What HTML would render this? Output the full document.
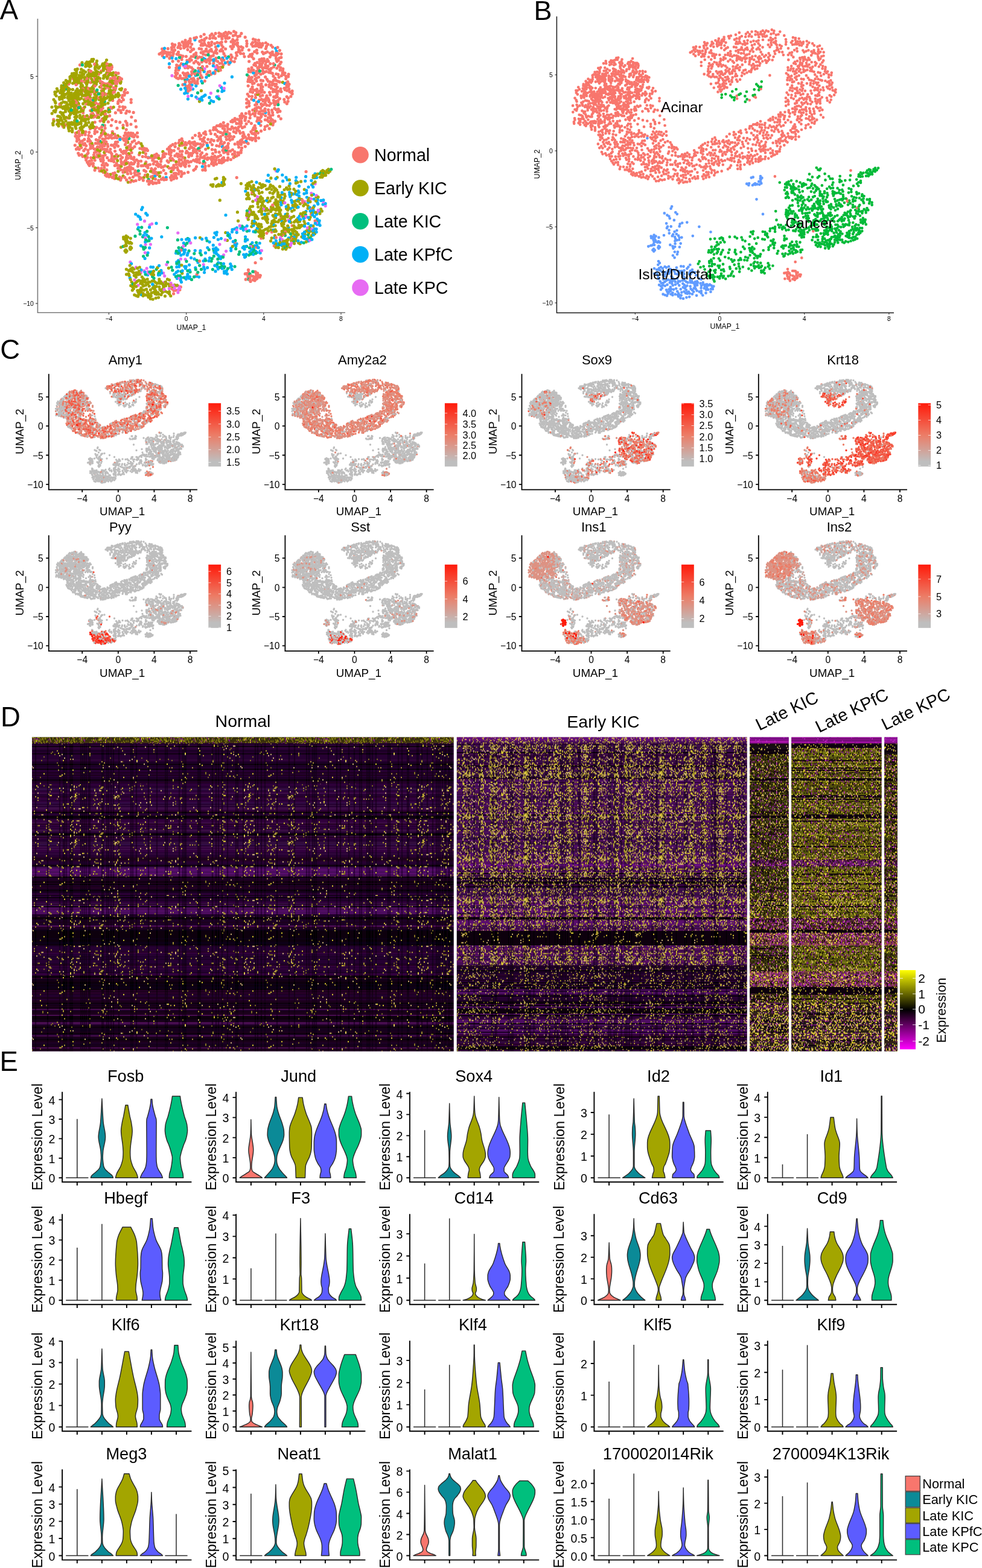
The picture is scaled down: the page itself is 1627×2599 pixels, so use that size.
<!DOCTYPE html>
<html lang="en"><head><meta charset="utf-8"><title>Figure</title><style>html,body{margin:0;padding:0;background:#fff}body{width:1627px;height:2599px;overflow:hidden}svg{display:block}text{font-family:"Liberation Sans",sans-serif}</style></head><body><svg width="1627" height="2599" viewBox="0 0 1627 2599" font-family='"Liberation Sans", sans-serif'><g id="panelA"><text x="-0.3" y="31.6" font-size="45.5" text-anchor="start" fill="#000">A</text><path d="M62.4 31.0V518.2H572.0" fill="none" stroke="#7a7a7a" stroke-width="1.6"/><line x1="180.4" y1="518.2" x2="180.4" y2="521.4" stroke="#333" stroke-width="1.1"/><text x="180.4" y="531.8" font-size="10.4" text-anchor="middle" fill="#000">−4</text><line x1="308.6" y1="518.2" x2="308.6" y2="521.4" stroke="#333" stroke-width="1.1"/><text x="308.6" y="531.8" font-size="10.4" text-anchor="middle" fill="#000">0</text><line x1="436.8" y1="518.2" x2="436.8" y2="521.4" stroke="#333" stroke-width="1.1"/><text x="436.8" y="531.8" font-size="10.4" text-anchor="middle" fill="#000">4</text><line x1="565" y1="518.2" x2="565" y2="521.4" stroke="#333" stroke-width="1.1"/><text x="565" y="531.8" font-size="10.4" text-anchor="middle" fill="#000">8</text><line x1="59" y1="126.5" x2="62.4" y2="126.5" stroke="#333" stroke-width="1.1"/><text x="55.8" y="130.9" font-size="10.4" text-anchor="end" fill="#000">5</text><line x1="59" y1="252" x2="62.4" y2="252" stroke="#333" stroke-width="1.1"/><text x="55.8" y="256.4" font-size="10.4" text-anchor="end" fill="#000">0</text><line x1="59" y1="377.5" x2="62.4" y2="377.5" stroke="#333" stroke-width="1.1"/><text x="55.8" y="381.9" font-size="10.4" text-anchor="end" fill="#000">−5</text><line x1="59" y1="503" x2="62.4" y2="503" stroke="#333" stroke-width="1.1"/><text x="55.8" y="507.4" font-size="10.4" text-anchor="end" fill="#000">−10</text><text x="317" y="546.5" font-size="12.2" text-anchor="middle" fill="#000">UMAP_1</text><text x="33.5" y="274" font-size="12.2" text-anchor="middle" fill="#000" transform="rotate(-90 33.5 274)">UMAP_2</text><path d="M136 103.9zm11.2-.8zm13.3-2zm16.1-1.5zm.7 9.4zm-35.5 1.1zm5.4 6.3zm29.9-1.9zm184.9 2.7zm-170 7.5zm-8.7-3.3zm-11.3 4.3zm-24.9-.9zm-21.1-.7zm-2.4 1.9zm-7.7 1.5zm13.7 6zm2.2-2.8zm26.8 3.1zm36.4-3.7zm-2.8 12.6zm-7.9-6.5zm-17.7 1zm-30.1 4.4zm-9.1-3.2zm-26.2 10.6zm3.2-.7zm2.8-.6zm6.4 4.2zm12.3-1.3zm2.1-3.1zm25.1-2.8zm15.5 5.6zm21.8-1.4zm8.1-1.1zm-2.6 6.9zm-22.8 2.1zm-15-4.1zm-35.1 2.1zm-1.3 3.4zm-6.2-1.8zm-1.4-1.9zm-2.8 .4zm-8.9 3.7zm-9.4-6.1zm5.3 8.8zm8.6 0zm5.6-1.1zm1.6 6zm5.7-4zm4.1 1.4zm5.7-3.2zm2 4zm16.6-3.2zm15.8 3.6zm2.5-1.5zm.7 3.1zm4-2.9zm3.1 .6zm-26.7 4.8zm-9.9 3zm-25.2 1.7zm-7.5-4.6zm-4.8 6.1zm-7.9 7.7zm16.9-4.2zm5 5.3zm13.1-.2zm5.1-6.9zm34.3 3zm256 3.9zm-252.8 1.7zm-2.7 4.8zm-6.4-5.5zm-5.7 6.2zm-28.8-5.3zm-4.4 .5zm-21.8-.1zm14.9 6zm9.1 2.1zm16.1 3zm3 .4zm30.8-4.4zm-27 9.7zm-12.8 2.2zm-20.4 2.6zm-8 3.3zm10-.1zm3.8 2.4zm15.8-3.3zm32.8 10.9zm-48.5-4.8zm49 20.4zm129.1 4.5zm-60.6 11.6zm152.3 6.7zm-194.4-.5zm87.9 6.7zm-111.1 17.1zm277 12.7zm77.3-6.9zm-169.7 8.2zm5.7 9.3zm45.7 1.2zm2.3-2.7zm.2 4.1zm17.8 2.5zm5 .2zm6-3.4zm47.8 5.9zm-10.3 .3zm-22.5 4zm-31.8 6.2zm91.5 10.3zm-69.9 .2zm-35.3-5zm19 13.4zm7.4-4.5zm20-2.1zm22.1 3.8zm12-2zm2.7 2.7zm5.4-3.2zm12.8 3.5zm0 4.2zm-22.7 2.6zm-12.9-2.3zm-14.1 .2zm-20.7 3zm-6.6 2.6zm-1.3-3.4zm-38.4 3.6zm24.8 3.7zm4.6 .6zm81.1 10.8zm-7.3 .2zm-31.1-3.1zm-8.8-3zm-2.9 4zm-2.9 2zm-7.5-3.5zm-1.5 3zm-1.9-2.9zm16.1 10.5zm25.9-5.3zm17.4 4.7zm2.9 .7zm2.9-3.4zm13.7 3.9zm-3.9 8.5zm-5.1-2.2zm-20.9 2.1zm-5.8-2.5zm-36.9-4.2zm-16.2 3.8zm-56.3 5.4zm62.7 1.2zm19 3.9zm11.2 0zm44.3 4zm-11.1-2zm-16.6-.4zm-10.9 7.5zm-36.4-5.4zm-104.5-.3zm-126.9-.9zm3.8 12.9zm.7-3.4zm.3 4.7zm6.4-5.8zm264.2 8zm-200.6 34.8zm-54.7 12zm.6 12zm2.2-2.1zm9.7 .5zm3-2.5zm1 3.9zm3.8 2.5zm.8-3.1zm14.3 2.1zm12.8 1.6zm6.5-.4zm-20.3 3.9zm-25 8.8zm16.8 2.2zm16.1-3.6zm10.7 2.5zm-28.5 10.6zm-1.4-4.8z" stroke="#A3A500" stroke-width="5.2" stroke-linecap="round" fill="none"/><path d="M325.4 62.1zm68.6-1.4zm25.6 4.2zm-26.7 1zm-25.7 4zm-33-3.3zm-3.2 1.8zm-15.8-.6zm-.8 3.1zm-1.6-2.6zm-28.4 10.6zm12.4-6.7zm39.2 2.9zm3.6-1zm3.8 1.9zm3.1-1.9zm9.2-1.8zm31.1 4.9zm41.5-2zm6.9-3zm7.7 13.8zm-8.2 .3zm-9.3-3.2zm-58.5-1zm-55.9 .2zm-23.7 3.4zm-18.2 6.6zm7.1-3.5zm40.8 5zm8.2-1.5zm22.6 1.9zm25.2-1.3zm11.5 1.6zm14.2-5.8zm67.1 6.5zm-7.7 3.8zm-13.5 2.6zm-18.5 2.1zm-42.7-2.4zm-15.4-.5zm-10.1-4.4zm-10.7 4.3zm-52.4 10.2zm3-1.7zm23.5-5zm8.7 2.2zm29.4 2.2zm8.1-3.8zm53.3 2.7zm1.7-2.4zm38.7 4.3zm-23.1 2.8zm-9.9 3.2zm-16.2 3.4zm-51.6-4.7zm-12.8 4.3zm-2.8 .9zm-33.4-6.7zm-20.1 4.2zm-114 2.4zm-9.6-1.5zm-4.7 3.3zm26.1 6.3zm101.2-.4zm1.6-2.8zm35.5-3.1zm28.5 .8zm66.3 3.5zm9.8-2.3zm34.3 2.5zm10.5 10.2zm-14.7-7.6zm-6.4 1.4zm-2.5 3.9zm-8.9 1.3zm-19.4-.4zm-2.1-3.1zm-102.2-1.4zm-22.4-.9zm-100 3.7zm-4.1 1.9zm-73.2-4.2zm48.4 6.1zm10.1 2zm129.2 4.4zm6.1-3.3zm139.5-.2zm29.9 11.6zm-58.5-3zm-3.7 1.6zm-112.1-2.8zm-102.2 1.8zm-16.1-2zm-7.2 5.4zm239.2 5zm6-.9zm8.4-3zm9.8 4.2zm11.6-1.6zm20.5-3.5zm-16.4 11.5zm-19.1-.5zm-227.1 2zm-16.3 3.3zm211.8 2.4zm0 4.6zm35.8-3.9zm12-1.3zm11.3-1.2zm-16.9 10.5zm-18.7 4.3zm-2.7 0zm-248.2-4.5zm-19.2 4.5zm-7.5-5.3zm-8.9 4.8zm-12 3.7zm53.7-.1zm240.4 2.2zm16.3 3.1zm-18.3 6.8zm-3-.2zm-12.7-3.4zm-20.6 2.4zm-246-3.6zm-34.9 1.5zm-16.4 7.3zm77.2 4.8zm30.6-.1zm227.9 .1zm20.1-.9zm.7-3.1zm-29.5 8.8zm-30.6 3.3zm-2.3-3.8zm-240.9 1.4zm-24 7.2zm53.3 2.8zm38.2-2.9zm7 3.3zm141.6-4.2zm52.3 1.4zm2.2 .5zm12.5-4.4zm-8.9 7.2zm-21.3 1.3zm-14.8 .8zm-12.1 4.7zm-10-.6zm-46.4-2.1zm-107.6 2.9zm-12.4-3.8zm-13.4 1.4zm-10.8-4.2zm-23.5 1.1zm-26.3-.2zm2.4 8.2zm21.8 4.6zm13.6-3.4zm133.3 1.7zm11.2-.5zm14.9-1zm26.3 .2zm20.4 4.1zm25-3.7zm.5 3.4zm7.1-3.7zm7.3 .5zm8.9-4.1zm-22 11.9zm-18.4-2.3zm-63.6 4.9zm-36.2 .5zm-34.7-.2zm-19.8-3.7zm-10.4-.3zm-25.6-1.7zm-17.5-.8zm-13.5 6.5zm-17.2 2.9zm60.6-1.5zm42 6.6zm69.8-1.7zm46.2-1.3zm5.8 .4zm8.9-2.4zm13.3-1.5zm0 7.4zm3.4-.2zm6.5 1.2zm-39.5 2.2zm-17.1 0zm-55.7-1.3zm-10.7 1.9zm-18.1 .4zm-37.6-.6zm-1.6-1.9zm-22.1-1.1zm-8 6.8zm-10.7-6.3zm-3.1 1.5zm-15.6-1.5zm-20.2-.5zm35.7 13.1zm22.1 1.4zm28.3 .8zm7.6-.2zm12.8-2.7zm14.4-.9zm10.4-.3zm36.3 1.8zm22.4-5.1zm1.3 4zm12.9 1.9zm.7 5.2zm-.6 3.3zm-34.7-5zm-19.1 4.4zm-15.9-1.3zm-10.6-3.2zm-14.3 4.5zm-46.6 .6zm-25.6-.8zm-10.2 .7zm-14.5-4.2zm23.2 11.4zm44.4-1.9zm11.9 1.1zm25.5 .9zm18-3.5zm25 5.9zm-9.6 4.9zm-2.1-2.3zm-31.2 1.2zm-22.4 1.3zm-15.9 1.7zm-26.3-3.5zm74.9 10.9zm252.1 52.7zm-65.4 29.5zm4.1 23zm-43.5 46.3zm1.2-1.8zm18.2 7.1zm-1.1-2.6zm-18 2.2zm-119.3 15.3zm6.1 6.2zm-10.3 6.5z" stroke="#F8766D" stroke-width="5.2" stroke-linecap="round" fill="none"/><path d="M323 66.1zm-31.2 31.1zm-11.3 8.5zm77.1 10.3zm-33.5 9zm60.3 2.4zm-42.5 .7zm-23.9 12.8zm50.6 6.3zm-2.1-2.5zm-60 1.5zm27.9 15zm110 129.2zm-169.1 3.7zm166.9 5.6zm33.9-1.7zm29.6 2.1zm10.9 6.3zm-12.7 14.7zm15.5 1.1zm6.9 8.8zm-6.1-1zm-9.7 5.6zm-14.4-4.5zm-10.9 12.3zm41.6-5.2zm8.3 .6zm-5.3 12zm-16.4-6.6zm-32.2 1.6zm-8 9.6zm20.7 9.7zm-26.6 2.1zm-58.1 7.3zm68.8 2.8zm-57.9 6.6zm-21.2-5.4zm-13.9 2zm105.9 7.5zm10.5-.5zm.9 6.5zm-14.1 4.7zm-164.6-4.5zm-76.1 1zm56.9 7.7zm87.8 1.2zm25.8-1.8zm41.9 1.5zm-77.2 11.5zm-29.2-2.7zm-30.3 2.7zm-19.2-.9zm-59 4.7zm60.5-.5zm120.6-.1zm-42.6 22.7zm-22.1 4.6zm-107.7-2.9zm-9.1 12.8zm22.3-7.3zm90.1 1.3zm18.5-1.1zm-61 10.3zm-99.2 1.5z" stroke="#00B0F6" stroke-width="5.2" stroke-linecap="round" fill="none"/><path d="M283 95.1zm95.6-1zm-70 11.6zm13.1 14.2zm11.6-6.9zm-1.2 15.7zm-225.9 13zm189-.1zm-184 6.2zm62 20.6zm-3.1 39.2zm204.7 14.6zm161.5 64.4zm-290 11.1zm-11.6 79.2zm-6.2 2.7zm-4.5 11.8zm261.8 8.5zm-79.1-3.2zm-95.6-1.3zm-67.4 4.1zm-7.1-6.9zm70.2 13.8zm117.9-4.3zm38.1 3.6zm-108.4 9.9zm-41.3 .3zm8.7 4.4zm32.5 4.1zm-116.7 .4zm112.5 8zm15.7 3.7zm5.1 7.6zm-3.3-3zm-126.5 13.7zm50.3 3.7zm-38.7 .1z" stroke="#00BF7D" stroke-width="5.2" stroke-linecap="round" fill="none"/><path d="M349.3 154.4zm69.9 158.9zm85.8 20.9zm34.2 7.1zm-71 18.4zm37.6 .7zm-96.1 0zm-161.4 12.4zm261.2 4.9zm-139 45zm-154.7 11.6zm17.6 17.4zm11.7-1.4zm27.6 7.1zm-43.7 15.6zm59.5 2.6z" stroke="#E76BF3" stroke-width="5.2" stroke-linecap="round" fill="none"/><path d="M143.9 102.9zm10.9-4.6zm26.7 11.8zm-8.5-4.4zm-15 3.4zm-9.7 1.2zm-20.1 4.1zm6.5 .5zm23.2 .3zm13.4-1.1zm.1 2.7zm16.3 3.9zm-1.3 4.2zm-9.7-3.5zm-29.2-.3zm-14.4 4.3zm-10.4 3.9zm.5 4.8zm9.2-.1zm1.8-2.5zm6.2 2zm3.1 1.1zm9.6-.9zm43.4-5.5zm272 8.2zm-293.9 4.4zm-28.9-4.6zm-12.4 1.3zm-18.1-.5zm-7.2 6.2zm-.4-3.9zm-1.9-2.1zm-11.3 9.8zm8.2 3.7zm2.5-5.5zm1.2 4.9zm4.6-6zm17.6 6.9zm10.9-4.8zm.6 1.8zm61.5-1.2zm225.5 9.7zm-232.5 1.5zm-21.6-3.2zm-29-1.8zm-40.5 3.4zm16 8.1zm3.4-3.3zm3.5 1.3zm.8 3.9zm7.5-3.5zm16.2 4.8zm179.7 .4zm-163.8 2.8zm-2.1 4.4zm-45.4-6.1zm-3.1 3.9zm-8.3-3.5zm-16.6-1.4zm.8 7.9zm18.7 4.6zm2.2-2.3zm4 1.5zm21.3 1.4zm13.4 2.6zm17.1 3.5zm-63.4 4.3zm-6.9 1.5zm2.3 1.7zm34.2 2.8zm25.9-3.4zm14.5 3zm2.2-4.3zm270.8 12.4zm-295 1.6zm-2.4-.1zm-24-.1zm-2.2 .4zm-18.3-1.7zm-1.9-2.7zm-7.1-1.9zm38.4 11.8zm33.2 3.1zm-29.4 3.8zm-19.9-1.1zm91.9 17.4zm22.2 2.3zm111.2 6.9zm-131.7 9.5zm92.8 7.3zm-116.6-2.4zm102.3 8.7zm-13.7 8.1zm-82.3 7.7zm345.5 1.5zm2.9-4.9zm-85 13.4zm-100.2 1.6zm-94.5-3.4zm-26.1 1.8zm-34.4-2.5zm14.3 7.9zm154.2-2.6zm106.9 1.4zm-15.9 11zm-33.1-4.9zm-10.3 2.8zm-59.9 .2zm-1.8 1.5zm63.4 4.1zm36.7 2.2zm65.5 11.6zm-28.3 1.1zm-35.2-5.4zm-33.4 6.9zm2.6-.6zm2.5 1.9zm2.1 5zm72 2.9zm-3.4 2.6zm-42.4-1.9zm-27.4 2.2zm-12.9 10.5zm21.5-6.4zm20.7 3.5zm14.4-.8zm-13.3 4.1zm-3 2.9zm-4-.8zm-4.4 2.6zm-7.6-2.9zm-32.4 4.4zm10.6 3.3zm33.8 5.7zm24.1-4.1zm45.4 2.9zm-38.5 1.8zm-20.3 6zm-14.8 .6zm-30.9-4zm2.6 11.1zm8.2 .9zm40.4-4zm2.6 4.3zm-5.8 3.3zm-7.7 2.3zm-30.3 .7zm17.1 10.1zm42.5-.4zm6.1 4.9zm-9.6-.3zm-278.6-3.2zm-2 15.4zm8.2-4.1zm.8 1.5zm252.4-.4zm-259.8 5.1zm13.5 28.1zm79.7 7zm-70 1.5zm-3 .6zm-13.4-6.8zm-2.2 .1zm12.2 10.9zm9.9-.2zm2 2.7zm40.1 1zm-11 6.9zm-33.4 0zm-2.9-4.9zm-13.3 8.6zm4.5 5.2zm48.3 .4zm1.5-2.5zm3.4-2.8zm6.3 .9zm-6.9 8.3zm-4.9 1.8zm-34-4.3zm-3.2 .3zm-9 8.1zm22.4 1.1z" stroke="#A3A500" stroke-width="5.2" stroke-linecap="round" fill="none"/><path d="M373.8 53.6zm13.7-1.4zm-10.6 4.2zm-3 6.9zm-19.8-3.7zm-3.1-3.3zm-29.1 6.7zm16.4 4.3zm21.5 3.3zm8.1-6.4zm18.8 5.7zm31.9 .8zm4.5-1.6zm7.1 2.4zm2.1 2.4zm-8.2-.9zm-24.6 4.5zm-6.2-2.6zm-86.2 2.4zm-2.9-1.4zm-7.9 .5zm-27.6 4.7zm3 2.6zm3.2 3zm3.5 .5zm37.2-1.7zm2.4-2.6zm21.7 2.1zm2-3.6zm.8 3.4zm12.1 2.9zm2.6-3zm38.4-3.2zm1.4 3.4zm4-2zm20.7 2.8zm18.7-5.2zm10.9 5.5zm-2 4.9zm-34.7-.3zm-9.6 3.2zm-12.7-1.9zm-51.3-.9zm-4.2-1.2zm-49.6-.9zm-1.1 3.5zm0 9.2zm15-3zm27 5.4zm21.5-4.8zm21.3 .3zm17.4 2.6zm24.4-.3zm17.3-3zm3.7-1.1zm4.6 3.3zm25.6 5.1zm-24.1 .8zm-6.7 3.5zm-67.6 1zm-4.1 .3zm-14-6.6zm-37.6 3.9zm-29.3 2.6zm-95.1-.1zm-.4-2.5zm-52.5-1.3zm52.2 6.9zm107.2-2zm4 3.3zm145.2 2.6zm4.3-3.7zm23.4-.8zm9.3 9.2zm-17.3 .2zm-9.4-1.9zm-2.8-.9zm-23.8 2.9zm-75.1-.4zm-37.9 0zm-.9-2.1zm-3.2 1zm-4.3-1.2zm-5 4.8zm-157.8 10.3zm51-.1zm7.1-6.7zm2.8 1.8zm91.1-1.9zm11.3 1zm8.9 3.1zm6.9 1zm7.1 .8zm146.9-4.3zm4.1 12.3zm-3.9-5.4zm-16.2 2zm-11.5 .8zm-131.2 3.4zm-12-3.3zm-122.7 2.8zm-11.4-2.8zm-30.3 10.1zm8.6-1.7zm8.3 1.9zm32.7-5.1zm226.5 6.3zm38.3-3.6zm18-2zm1.4 2.4zm2.3-4.2zm.7 5.6zm7.4 3.3zm-40.9 5.5zm-23.3-5.8zm-211.7 1.6zm-38.2 4.7zm-13.1-6.4zm-5.5 3.6zm-10.5 2.6zm-8.4-4.9zm55.5 12.1zm17.7-1zm212.5-.9zm20.8 1.1zm23.1 1zm-15.1 2.1zm-9 4.7zm-11.5-3.8zm-13.3-1.4zm-3.2 2.7zm-256.2-2.3zm270.1 11.4zm5.9-2.2zm3 1.5zm13.1 2.8zm6.9 4.4zm-5.9 2.7zm-224.5-2.8zm-10.9-2.4zm-28.6 7.9zm-19.5-2.5zm-3.4 3.4zm272.6 2.3zm8.1 3.5zm3.6 .7zm1.4-4.1zm4.2 1.1zm2.8 2.5zm4.2 2.1zm-10.3 .8zm-13-.4zm-15.9 3.3zm-217.7-1.9zm-32.8-2.1zm28 11.8zm164.6 2.8zm1-6.7zm9.7 4zm24.8 1.4zm7.5-2.2zm20.5 3.5zm-6.1 3.2zm-25 1.6zm-10.6 1.5zm-170.1 1.7zm-23.9-4.9zm-15.5 3.3zm-13.8-.3zm15.8 9.8zm46-5.5zm119.6 2.4zm35.8-1.2zm4.2-1.2zm6.9 5zm-7 7.2zm-52.8 .6zm-6.9-2zm-32.4 3.3zm-145.7-1.9zm-9.3 9.7zm45.9 .1zm12.9-3.3zm5.6-2.1zm40.3 5.1zm44.5-3.2zm35.6-1.2zm5.3 3.2zm10.3-1.7zm9.1 2.9zm10.7 .5zm54.9-5zm-7.1 10.2zm-2.8 .2zm-2.5-.2zm-24.9-3.7zm-43.2-.9zm-.9 3.5zm-4.5-2.1zm-1 3.8zm-11-.1zm-63.9-4.1zm-4.7 0zm-31.1 4.7zm-3.4-3.5zm-3.8 1zm-42.8-3zm-29 5.4zm1.5 3.2zm13.7 3.9zm16.3-4.6zm48.4 4.1zm1-3.6zm44.6 5.1zm1.3-2.7zm13.7-2.5zm19.7 1.3zm11-2.1zm11.8 3.7zm14.2-.8zm8.2 2.1zm8.8 .4zm6.9-1.4zm41.2-1.7zm-24.7 11.6zm-30.7 .9zm-9-6.6zm-14.9 4.8zm-15.7-4.8zm-73.8 4.3zm-4.6 3.3zm-1.2-2.1zm-11.7-.7zm-17-1zm-31.5-2.5zm-2.8 5.3zm13.5 8.3zm10-5.8zm17.6 5.5zm1.9-4.6zm51-1.5zm48.6 .4zm2.5 1.8zm12.1 10.6zm-20.1 1.8zm-16.8 .3zm-8.4-1.9zm-89.5-4.1zm-11.8 1.6zm11.8 8.8zm6.1 .1zm3.4 2zm41.1-4.1zm13.1 .3zm29.8 4.4zm21-3.9zm8.9 1.4zm-16.4 6zm-39.4 1.9zm-7.1-1.3zm16.2 5.4zm135.5 98zm22.5 45.1zm14.4 14.2zm-6.8 2.2zm-5.2-2.9zm-114.6 14.8z" stroke="#F8766D" stroke-width="5.2" stroke-linecap="round" fill="none"/><path d="M336.6 96.3zm36.8 7.9zm-35.1 14.5zm33.7 19.1zm-72.3 10.1zm19.9-.3zm30.2 19.3zm-38.4-2.8zm128.5 22.5zm-241.1 44.6zm169.7 12.1zm-33.2 32.7zm-78.4 15.8zm188.9 8.9zm-20.8 1.5zm-18.2 14.6zm88.3 2.3zm-29.7 16.3zm-229.4 8.5zm281.9 12.4zm-21.6 1.9zm-252.3-1.8zm-15.1 1.8zm-4.2-3.2zm300.9 8.2zm4.5 10.3zm-4.6-1.6zm-72.6 0zm-49.9 7.1zm.3 2.3zm1.7-3.9zm119.1 2.2zm-143.9 9.3zm-142.3 1.2zm75.3 6.5zm.3 2.8zm52.9-4.1zm40 4.4zm3.4-2.3zm44.9-3.2zm-33 13.2zm-30.8 .4zm-2-2zm-35.6 .6zm3.1 6.8zm60.5 .6zm3.3-2.1zm10.9 7.5zm-.1-3.2zm-69.7 6.8zm-20.8-3.6zm-43-.9zm-57.4 10.1zm55.4 3.5zm21.1-4.6zm53.9 9.9zm-24.5-4.8zm-128.4 4.7zm32.3 5.4zm58.4-.7zm15.5 2zm36.3-1.5zm21.8 .7zm-87 6.3zm-1.5 12.2zm14.9 1.1z" stroke="#00B0F6" stroke-width="5.2" stroke-linecap="round" fill="none"/><path d="M324.1 95.1zm130.8 12.6zm-147.9 25.4zm153.8 40.5zm-295.3 60.6zm340.9 121.6zm-36 28.5zm2 5.9zm9.2-2.5zm-138.5 11.3zm-48.7-1.3zm-48.4-5.6zm63.8 11.1zm80.9 9.2zm-89.2-1.7zm-57.4 12.2zm151.6-1.4zm22.7-2.9zm-29.4 23.2zm-74 8.9zm-20.2 6.4z" stroke="#00BF7D" stroke-width="5.2" stroke-linecap="round" fill="none"/><path d="M316.6 146.1zm45.1 13.7zm-34.5 3.7zm130.3 119.7zm-31 43zm73.2 31.6zm-21.5 .6zm-250.5 13.4zm67.1 14.2zm169.8 7.9zm-148.8 8.8zm-11.9 5.2zm70.7 8.4zm-149.1 26.9zm71.5 17.8zm-25.4 7.3zm-48.6-4.2zm57.3 14.3zm15.6-4zm1.7 3.3zm-2.7 7.1z" stroke="#E76BF3" stroke-width="5.2" stroke-linecap="round" fill="none"/><path d="M272.6 80zm96.1 16.2zm-14.5 5.4zm-14.6-3.6zm-29.7 32.9zm161.9 7.6zm-147 3.8zm43 9.3zm3.1-1.7zm-30.9 7.7zm-15.2 3.2zm95.7 5.4zm-12.8 67.7zm60.1 56.1zm48.1 9.3zm-47.2 .9zm25.4 16.3zm14.4 10.5zm-67 5.3zm32.7 10.2zm45.2 9.7zm1.7 7zm-288.2 4.3zm26.1 6.7zm262 9.1zm-9.3 3.5zm-85.4-4.6zm-13.5 4.2zm-20.4-4.7zm-15.2 8.5zm131.3 10zm-3.8-.6zm-236.9-3zm191.5 14.5zm8.2-4.2zm-43.6 13.7zm-4.2 5.1zm-5.8-4.4zm-58.8 1.2zm-44.9 4.3zm-6-1.7zm-12.6-1.6zm55.9 8zm14.1 7.8zm-33.6-.3zm-30.8 3.7zm-4.4-4.4zm3.9 7.8zm42.3 4.5zm16.9-6.4zm-67.1 14.6zm-26.3 1zm-11.5-5.3zm49.6 9.5zm12.8 1.3zm11.7-3.4zm4.5 1.2zm-29.1 8.5zm-66 20.9z" stroke="#00B0F6" stroke-width="5.2" stroke-linecap="round" fill="none"/><path d="M357.1 55.4zm21.9-1.9zm11.8 .5zm-24 6.3zm-4.1-.2zm-28.6 11.8zm11.5-.9zm37.5-1.8zm45.4-2.5zm15.3 6.8zm-14.4 4.2zm-7.1-1.5zm-13.2-3.9zm-.4 4zm-18.3-3.3zm-79.7 4.1zm-25.3-4.3zm-2.9 14.3zm16.7-6.8zm25.5 7.5zm8.9-6.5zm127.5 7.5zm-13.6-.8zm-35.2 5.6zm-59-1.5zm-32-1.4zm-.4 2.8zm-21.3-1.4zm-33.1-4zm-2.5 1.5zm45.9 10.5zm4 1.6zm.6-4zm2.7 1.8zm7.3 1.9zm9.8 1.3zm2.6-2.6zm5.1 2.6zm1.3-3.3zm2.8-1.5zm10.9 2.1zm25.3-2.2zm37.8-.5zm15.2 2.8zm7.7-1.4zm18.1 1.2zm-8.1 5.7zm-24 5.8zm-49.7-4.9zm-86.6 1.3zm14 4.4zm58.6 4zm50.1 2.8zm19.6-6.2zm.5 4.6zm6-4.6zm7.9 .5zm28.1 13.7zm-9.4-6.1zm-39.3-.2zm-16.7 5.8zm-220.3-6zm-35.5 13.7zm1-5.2zm25.7 1.4zm2.3 .3zm4.9 2.8zm110.8-3.4zm16 .4zm4.9 2.6zm17.4 1.2zm72.3-2.7zm3 3.9zm1.3-2.7zm19.7 1zm6.8-2.3zm15.3 2zm21.3 6.1zm-22.9 3zm-5.1-5.9zm-16 7.2zm-259.8-4.8zm-25-2.3zm19.1 10.8zm11.3-1.2zm249.6 4.5zm2.2-4.8zm19.7 5.8zm4.9 0zm4.4-.7zm22.7 4.2zm-50.9-2.5zm-7 .3zm-240.6 2.6zm-9.7 .3zm-5.9 .5zm-8.6-3.3zm-12.8 2zm-3.8 3zm263.9 6.4zm21 1.2zm3.6-1.3zm20.4-3.9zm2.8 .7zm14.3 3.4zm4.4-4.5zm1.9 7.6zm-20.2 3.6zm-261.1-3zm-42.9 11.1zm2.3-2.4zm3.2 5.9zm6.9-4.9zm13.7 5zm25.1-1.8zm214.7 1zm31.7 .3zm13.4 1.7zm-35.1 3.5zm-6.4 4zm-7.6-1.6zm-13.7 1.6zm-200.5-5.4zm-111.8 11.7zm80.6-1.2zm.9 2.7zm256.7-4.5zm38.3 1.6zm-73.4 7.9zm-6.6-2.8zm-174.6 5.7zm-2.5-6.5zm-51 1.4zm-41.4 1.1zm-7 3.6zm-4.8 1.9zm56 2zm4.9 2.1zm191.8-1.8zm15.4 2.5zm5.7-.2zm9.3-.9zm31.7 2.3zm3.4-6.7zm-10.4 15.1zm-7.8-.6zm-54.6-1.4zm-207.4-3zm-.8 4.7zm-11.8 4.6zm1.2 3.4zm9.2 0zm7.1-6.6zm1.1 7.3zm31.7-3.1zm9.9-.6zm25.9-3.7zm107.9-.2zm6.4 1.5zm2.9-1.2zm32.7 2zm14.3 3.7zm2.6-4.1zm24 .6zm6.3 1.4zm10.9 .2zm-12.4 9.5zm-6.7-2zm-6.3-2.6zm-8.9 5.5zm-23.9-1zm-13.8 2zm-16.1-5.8zm-20.2 4.2zm-85.4-2zm-10.7-.9zm-56.1-2.7zm-1.5 5.2zm-24.7 .8zm-10.3 8.6zm14.8-.4zm12.6-5.7zm7.6 2.5zm5.7 4zm2.6-.4zm3.7 .2zm9.4-.1zm29.5 .3zm24-3.3zm82.1 .4zm5.1-3.5zm35.3 .3zm11.6 3.6zm4-1.3zm25.1 5.5zm-10.8 2.4zm-7.1-1.3zm-25.2-1.8zm-4 5.9zm-10.1 1.3zm-16-1.7zm-3.6-2.8zm-7.1 3zm-17.2-3.4zm-115.1 1.6zm-18.3 3zm-1.8-4.6zm-12.6 10.7zm7-1.1zm4.6-.3zm5-1.5zm3.4 2.8zm14.9-2.6zm13.9-1.1zm3.2 3.2zm9.7 1.1zm9.5-1.2zm27.3 .1zm20.6-.6zm15.5 2.5zm13.5-3.8zm62.9 .5zm6.6 3.7zm14.1 1.2zm-5.4 .8zm-4.2 .5zm-42 3.8zm-10.2-4zm-41.4 3.2zm-2-2.1zm-17.3 1.6zm-26.4-1.3zm-24.5-2.9zm-24.8 2.4zm29.8 10.1zm14.4-1.1zm59.5-1.5zm1.4 3.9zm36.2-1.6zm-28.8 7.6zm-2-2.5zm-6.3 5.9zm-1.5-5.9zm-30.8 5.8zm-.4-3.6zm-2.9-1.7zm-11.2 2.3zm-24.5 3.4zm-30.2 0zm3 8.3zm16.9-1.7zm85.8 1zm-20.8 2.8zm-9.1 1zm-15.5 .9zm-25.8 .4zm244.2 59.4zm56.5 6.3zm-222.3 48.7zm126.9 38.1zm-2 .7zm-3.8 9.2zm3.9-6.1zm6.5-.1zm-16.3 10zm-129.9 12.3z" stroke="#F8766D" stroke-width="5.2" stroke-linecap="round" fill="none"/><path d="M174.5 103.9zm6.6 3.2zm-6.4 4.3zm-14.9-.6zm-9.3-1.5zm-14.4 10.6zm2.2-2.7zm19.2-4.6zm178.3 3zm-155.8 6.4zm-22.6-.5zm-2.2 4.3zm-6.1-5.5zm-13.3 5.6zm-4.9-.7zm-9.6 2.3zm-3.6-1.4zm-1.8 8zm.3-3.4zm9.3 0zm1.4 1.8zm5.9-4zm28.7 5.9zm9.9-4.7zm6.2 .4zm10 5zm-11.6 8.2zm-18.3-2.9zm-1.2-3.7zm-1.4 5zm-11.4-1.7zm-9.3 0zm-4.4-3.2zm-14.5 11.4zm19.5-2.3zm7 2.6zm1.4 1.8zm16.6 1.2zm11.3-1zm9.7 .4zm2.5-1.3zm3.2 1zm-43.7 4.8zm-.4 2.8zm-11.6-1.9zm-2.1-2zm-2.4 .2zm-.9-1.6zm-.5 5.5zm-10.9 .1zm-6-2zm-1.9 1.3zm33.2 7.3zm3.5 .4zm3-1.4zm32.5-4zm12.1 .5zm-16.6 12.1zm-4.5-2.6zm-.3 4.1zm-13.3-5.8zm-25.6 3.5zm-1.5-2zm-7.6 1.5zm-2.3-.1zm-.2 2.3zm-2.7-5.1zm-22.6 10.7zm12.1-2.3zm22.8 .9zm6.8 3.3zm27.9 2.5zm.3-4.4zm24.9-1.6zm-8.4 8zm-60.5 1.3zm-14.8 .4zm-13-1.9zm15.3 11.5zm20.8-3.7zm7.3 1.9zm2.4 2.8zm1.8 2.1zm1.4 7.9zm-10.2-4.1zm-.4 2zm-1.8-2.4zm-7.1 .4zm-7.5 0zm-18.8 2.2zm2.3 2.8zm16.7 4.5zm20.5 1.8zm16.1-3.6zm5.4-.9zm-27 8.8zm-14.2-2.6zm37.7 20.8zm117.7 13.8zm-97.1 1.3zm-8.8 5.8zm76.6 13zm-72.2 12zm38.4 1.3zm327.9-2.1zm2 1.1zm2.3 4.1zm7.6-4.1zm-7 6.8zm-285.9 5zm-9.5-2.4zm-51.6-2.6zm19.7 11.4zm200.7 .8zm85.6-1.9zm-19.5 7.3zm-42-1zm-1.7-1.2zm-15.1 5zm8.1 5.3zm60.5 4.8zm-78.3-.9zm8.3 13.6zm11.3 .2zm4.6-5.2zm30.1 2.1zm25.4 1.9zm12.8 3.5zm-11.1 7.6zm-39.8-.6zm-38.8 2.7zm1.5 2.6zm19 .6zm97.8-2.6zm-56.2 9.9zm-2.2 1.8zm-34.4 1.2zm-4.9-4.3zm37.8 7.8zm11.3-2.7zm29.6 3.3zm.8 12.2zm-15.5-.2zm-48.1-4.9zm-.8 4.5zm6.9 5.6zm1.3 2.4zm13.1-6zm14.3 6.3zm7.4-5.7zm28.3 6.4zm-4.2 6.3zm-25.3 1.5zm-5.2-5.2zm-52.4 1.2zm-2.2-1.6zm-226.2 9.5zm171.6 2.5zm73.6-3.9zm25.3 3.7zm5.7-4.1zm1.7 4.8zm-7.3 2.5zm-.4 2.9zm-263.9-4.2zm-10.7 9.7zm217.7-1.4zm55.5 4.7zm-172.8 26.4zm-81.4 4.6zm8.1 .6zm-1.8 7.5zm-16.3 2.6zm45.5 10.9zm2.6 2.3zm6.2-1.4zm.3 2.8zm10.2-2zm6.2-3.3zm5.3 10.7zm-14.9-.6zm-14.1 2.4zm-1.9-3.1zm-12.4 5.9zm-8.6-2.4zm-14.2-1.5zm10.3 12.4zm7.2-1.4zm17.4-2.2zm4.4 1.3zm21.5-2.1zm2.3 7zm-29.5 5.5zm-24.7-4.8zm-2.9-1.1z" stroke="#A3A500" stroke-width="5.2" stroke-linecap="round" fill="none"/><path d="M522.1 304.6zm2.3 19.5zm-87.9 22zm11 1.2zm77.5 4.5zm-17.7 7zm-267.8 7.6zm12.2 4.6zm-11 23.4zm8.7 10.6zm-8.3 .3zm96.1 33.3zm-66.5 13.9zm-24.1 .4zm-7.7-4.1zm56.3 31.3z" stroke="#E76BF3" stroke-width="5.2" stroke-linecap="round" fill="none"/><path d="M323.4 117.2zm107.1 .5zm-269.7 31.4zm168.2 97.1zm214.5 37.6zm-314.2-.8zm160.6 115.7zm124.2-4.6zm-98.8 11.5zm-211.1 2.8zm199.7 .4zm68.2 1.2zm-56.7 11.1zm-83.8-1.9zm-35.3 15zm34.4 5.9zm-6.4 6.6zm-65.2-.4zm46.1 13.8zm106.7 2.8z" stroke="#00BF7D" stroke-width="5.2" stroke-linecap="round" fill="none"/><path d="M144.3 108.8zm.9-2.7zm14.4-1.6zm9.7 3.7zm1-2.4zm8.3 1.5zm-5.2 6.1zm-10.2-.2zm-1.2 6.2zm-35.3-1.4zm18.2 6.7zm28.9-.2zm26.4 11zm-54.4-2.5zm-5.3-2.5zm-11.6 .6zm-26.8 11.1zm7.3-.2zm.6-2.5zm14.1-2zm10.8-.9zm7.7 .6zm23 6.8zm12.6-2.1zm22.4 7zm-57.1-4.2zm-12.3 6zm-10.7-2.3zm-18.6-3.7zm-11 7.8zm8.8 1.2zm19.3 3.9zm7.9 .5zm6.3-1.9zm1.4-4.1zm11.9 4.5zm.8-4.3zm.9 6.6zm8.8-2.5zm9.2-1.3zm13.8-.1zm4 6.3zm-2.9 0zm-11.1 4.7zm-24.6 1.3zm-20.3-6.4zm-3.5 4zm-17.9-4.3zm-.6 3.5zm-4.3 .5zm-9.7 .4zm2.9 5.6zm26 5.2zm7-4.2zm20.5-1.9zm6 5.9zm2.5-1.4zm25-3.2zm.9 8.6zm-72.3-.1zm-3.3-.1zm-1.4 10.3zm13.8-3.3zm6.1 2.1zm49.4 .2zm.8 9.7zm-1.1-2.4zm-30.5 3.9zm-3.4-7.4zm-28.3 2.2zm-7.4 4.8zm-14.6 4.9zm.3 2.5zm1.1-6.1zm23 4.5zm6.6-2.2zm1.4 3.1zm22.1-2zm-17.3 5.7zm-11.8 .5zm-7.1-2zm31.3 8.8zm287.7 .8zm-229.8 7.2zm-20.8 12.8zm61.1 3.8zm-77.6 36.6zm125.6 6zm-100.8 4.6zm10 6.2zm51.9-5.5zm274.4 4.6zm17-3.2zm-13.9 10.5zm-29.1 .6zm-76-1.1zm-48.2 6.5zm47.8 3.2zm102.1-6.7zm-14.4 10zm-14.5 2.7zm-18.7-2.3zm-24 4.8zm-2.3-6.5zm-3.1 .7zm-7.5 5.3zm-17.7-4.3zm-8.6-2.3zm1 10.4zm8.7-1.3zm2.6 0zm32.3 5.5zm10.8-2.7zm48.9 4.7zm-12.4 1.8zm-12.9 3.5zm-17.7-1zm-8.4 1.3zm-3.6 .2zm-.2-3.4zm-7.1-2.9zm-6.3 .1zm-6.7 5zm-10.1 .5zm22.6 9.3zm9-2.5zm2 2.4zm28.2-1zm44.8 7.8zm-17.7 1.7zm-37.6-7.5zm-20.3 1.8zm-8.4 2.5zm-.8 2.1zm-4.8-2.2zm-11.2-2.4zm8.7 9.1zm1 4.7zm22-5zm22.4 4zm15.5 .6zm.5-6.6zm11.3 7.3zm-24.5 6.3zm-27-1.4zm-27.1-3.2zm-8.5 .7zm-8.5 4.3zm-7.1-3zm5.6 11.9zm6.7-6.3zm29.3-1.2zm23.8 6.3zm16.8-6.3zm1.7 5.3zm12.2 9.8zm-63-.2zm-14.9 8.5zm7-1.7zm51.9 .3zm16.8-2zm6.4-1.7zm9.9 .9zm-31.6 7.5zm-278.1-1.7zm-1.9 4.5zm0-3zm-2.7-.4zm4.5 7.6zm2.6 1.3zm253.9 4.7zm6.7 2.7zm-13.6-.1zm-4.3-.3zm-246.9 5.9zm50.8 27.7zm-51.5 2.6zm9.1 3.1zm2.6 2.4zm8.9 .7zm34-2.1zm-19.8 12.4zm-21.8-6zm-8.4-.4zm22.3 15zm12.1-3.9zm3.9-1.6zm14 1zm9 2.8zm14 2.7zm-24.5 7.4zm-27.2-5.7zm-12 .8zm2.2 6.7zm1.1 2.7zm17.2 3zm3.3-6.9zm7.5 6.4zm4.6-2zm1.6 2.7zm-.5 5.6zm-12.3-2.5zm-4.3 1.8z" stroke="#A3A500" stroke-width="5.2" stroke-linecap="round" fill="none"/><path d="M382.2 55zm24 6.7zm-8.8-2zm-11-.5zm-6.7 3.3zm-2.3 .8zm-1.9-4.1zm-3.1 .7zm-34.2-2.9zm-36.1 12.7zm5-2.8zm31.3 4.8zm.5-6.9zm11.9 5.1zm23.2-1.1zm15.1-.8zm45.6 7.1zm-17.9-1.9zm-66.5 1.4zm-3.3 2.3zm-42.1 2.4zm-6.2-4.4zm-13.9 7.3zm51.8 3.7zm8.7 .6zm28.3-5.5zm10.9-.3zm55.1 6.8zm19 3.3zm-11.3 3.5zm-10.8-5.3zm-19.2 5zm-13.9-4.9zm-32.5-.2zm-21 4.4zm-49.2 2zm-7.5-5.5zm-14 .2zm-7.8-1.7zm68.1 12.7zm21.1 .8zm6-3.6zm23.4-1.5zm40.6 4.6zm4.6 2.4zm22.3-7.2zm-17.1 14.1zm-7-3zm-2.9-1.7zm-87.7 4.1zm-7.3 .3zm-21.8 .4zm-13.3-5.1zm-120.6 9.4zm137.8 3.9zm38.8-.2zm68.7-.7zm48.7 8.4zm-3.6-2.9zm-12.5-1zm-4.8 3.7zm-24.3 1.6zm-95.7-2.7zm-9.8-2.4zm-4.8-1.2zm-1.7 2.9zm-22.6-3zm-115.2 2zm4.1 8.9zm8.4-2.1zm6.5 5zm130.2-4.4zm82.9 4.2zm2.9-5.5zm36.8 11.5zm-18.4 .9zm-4.3-1.3zm-16.7 1.7zm-98.2-.5zm-128.5-.1zm-2.3-1.5zm-10.5-2.1zm-17.9 10.7zm21.3-2.7zm140 2.8zm100.6-.8zm2.7 0zm38.9 .2zm2.2-3.7zm-28.2 14.9zm-13.8 .3zm-214.6-1.8zm-13.3-5.8zm12.8 9.4zm221 0zm54.1 .9zm-20 5.6zm-240.3 1.7zm-21.7 1.7zm-52.6 .8zm-4.5 6.9zm31-2.6zm28.7 .3zm5.5 .1zm222 1.4zm31.6 3.2zm-11.8 4.7zm-6.3-2zm-230.4 3.2zm-67.8 5.6zm13.9 1.1zm30.9 4.4zm32.2-4.6zm171.3 2.4zm8.6-4.1zm8.2 7.4zm1.1-5.4zm25.8-1.2zm-20.9 8.2zm-12.2 2.8zm-2.8-3.6zm-7.9 .1zm-6.3 .8zm-12.5 1.9zm-145.9-3.1zm-14.2 4.2zm-30.8-2.5zm174.8 9.6zm14.8-3zm13.1 5.7zm2.3-3.8zm11 .1zm3.6-1.9zm44-.3zm-15.6 12zm-51-2zm-4.3-.2zm-10.6-.1zm-24 2.9zm-147.6 1.7zm-17.5-5.1zm-41.5 4.1zm.5 4zm15.2 4zm18.6-1.8zm10.4 1.2zm6.9-1.7zm24.9 2.9zm14.3-3.3zm6.1-.2zm73.4 3.5zm30.7 .1zm4.9 .1zm7.9 .6zm18.2-1.4zm40.4-1.1zm5.7 1.4zm5.2 .7zm2.1-1.7zm-19.1 7.7zm-16-4.3zm-53.5 6zm-25.2-4.3zm-5.1-1.4zm-89.9 7.1zm-35.2-5.9zm-22.4 .5zm-16.5 .2zm-1.5 3.1zm-2.8 6.9zm5.7 .2zm25 1.8zm9.7-3.8zm3.6-1.1zm11.4-1zm96.8 6.7zm8.8-4.2zm5.5 3.1zm5.5-5.5zm76.7 4.2zm.2 5.6zm-.3 4.7zm-3.1-3.5zm-40 1.7zm-32.6-2.6zm-8.9 4.3zm-9.6-2.6zm-3.3 2.6zm-71-5.5zm-5.1 4.6zm-44.7-2.6zm-13.6-2.5zm20.6 14.7zm23.3-.6zm3.3-.6zm66.2-1.8zm58.4-3zm14.5 2.8zm.3-4.4zm14.4 5.9zm6.4 1.8zm5.6-2.6zm19 .4zm9.1-.5zm-17.6 4.1zm-6.1 4.1zm-5.5-4.2zm-.9 2.7zm-2.4 2.1zm-3.9 1.3zm-27-4.3zm-23-2.1zm-.2 6.8zm-74-6.5zm-5.1-1zm-53.8 2.5zm-15.5-.6zm-3.7 .9zm-1.7 4.7zm8 3.5zm14.8-1.7zm21 .9zm16.3-1.6zm27.4 2zm16.9 4.9zm11.6-3.7zm3.3-3.1zm7.7 2zm6.9 3.7zm13.4-.9zm30 2.1zm-18.5 7.2zm-92.3-5.2zm-38.3 8.5zm5.1 0zm.8 2.7zm69.4 .1zm10.6-3.7zm21.8 4.9zm19.3-5.8zm-42.7 14.9zm-1.6-6.5zm-41.3 4.8zm-6.4-3.5zm-10 .2zm47.1 6.8zm170.9 13.9zm83.3 12.8zm.7 3.5zm15 11zm-84 48.4zm24.7-1.1zm-24.6 35zm-102.3 4zm90.4 17.7zm-11.8 3zm-1.9 9.8zm12-5.1zm2.8 1.5zm-131 21.5zm-3 .3z" stroke="#F8766D" stroke-width="5.2" stroke-linecap="round" fill="none"/><path d="M456.7 80.1zm1.4 4.7zm-152 54.8zm2.4 11.1zm1.8 3.3zm50.3 8.3zm-114.9 98.9zm275.9 33.4zm.4-6.6zm2.8 6.3zm-6.1 15.6zm-7.6 .1zm-30.7-5.7zm-57.8 10.7zm57.2 3.9zm15.6 5.9zm-3.7-2.2zm-6.2-.9zm7.6 10zm32.8 3.8zm13.2 1.9zm-45 5.9zm12.9 7zm7.1-.7zm-102 5zm-38.1 1.9zm119.7 4.8zm34.7 8.3zm-17.9 1zm-263 6.1zm141.3 2.9zm113.5 10.7zm-143-5.2zm-.8 4.2zm21.8 3.1zm1.2 2.2zm105.6-1.5zm12.3 8.5zm-33.4 4.5zm-79.7-5.7zm-39.2 .7zm-106.3-.2zm55.7 14.6zm35.5 .2zm50.7-4.2zm19.5-1zm-35.4 15.2zm-1.3 3.1zm-43.4 .4zm59.7 8.4zm-13.7 7.5zm-53.9 2.7zm-80.2-.4zm139.9 4.6zm2.5 1.9zm-77.1 10.5zm-46.6 6.8z" stroke="#00B0F6" stroke-width="5.2" stroke-linecap="round" fill="none"/><path d="M297.5 95.2zm37.8 42.3zm25.6 13.2zm-179.8 31.8zm-28-.3zm60.6 47.2zm160.9 19.3zm26.5 126.1zm8.1 8.3zm-131.8-5.8zm145.8 7.3zm51.9 22.6zm-236.9 5.8zm174.1 9.8zm-120.1-6.4zm33.9 15.1zm43.4-5.3zm-9.5 11.6zm12.1 4.3zm-71.9 7.8zm-37.4 3.2zm54.7 10.3z" stroke="#00BF7D" stroke-width="5.2" stroke-linecap="round" fill="none"/><path d="M304.3 109.1zm34.9 4.8zm25 28.2zm7.1 4.2zm-59.6 13.2zm224 175.1zm-112-2.9zm103.6 16.7zm-2.9 21.2zm-132.2 11.6zm-151.8 37.6zm2.7 26.1zm40.1 24.5zm5.9 8.6z" stroke="#E76BF3" stroke-width="5.2" stroke-linecap="round" fill="none"/><path d="M362.9 54.8zm37 .6zm-30.1 3.9zm-3.8-2.8zm-9 7zm-8.7-4.5zm-.7 4.7zm-14.8-3.3zm-26.2 9.7zm4.7 .1zm3.8-5.9zm144.9 14.2zm-8.4-.4zm-10.2-1.2zm-8.8 1.1zm-13.7-1.4zm-16.7 2.6zm-15.9-5.5zm-4.2 3.3zm-12.7 1.1zm-51.7-4.8zm-6.3 .7zm-3.1-.4zm-3.7-1zm-14.8 1.8zm-1.6 3.5zm-1.9-2.6zm-17.1 10.2zm51.5-4.1zm9.4-.8zm3.1 6.6zm14.4-3.4zm2.3-2zm.9 3zm13.8-.4zm4.3 .3zm22.5 2.9zm3.4-1.7zm17.6-3.1zm53.6 6.5zm-8.3-1.2zm-.9 4.5zm-5.5-3.8zm-117.1 6.2zm-3.7-.5zm-27.5-1.3zm134.2 4.1zm25.6-1.2zm-9.3 14.9zm-5.8-5.4zm-17.4 3.3zm-66.3-3.8zm-46.7 6.9zm-140-6.1zm-28.4 11.4zm28.8-5.3zm142 2.8zm9-1.9zm87.8 3.7zm.6-4.4zm9.8 .1zm12.8 15.4zm-16.5-6.9zm-80.5 2.3zm-11.3-2.7zm-21.1 4.7zm-4.8-.9zm-14.6-3.5zm-94.9 .7zm-32.4 1.6zm-14.1 5.8zm11.3-.5zm5.6 6.2zm140.9 1.2zm6.5-.1zm104.3-1.4zm7-4.9zm35.9 5.6zm13.7 5.4zm-147.6-2.1zm-4.3-.8zm-5.4-1.3zm-124 2.4zm-3.7-.3zm-1.3-1.3zm-62.3 3.6zm187 4.5zm105-.8zm6.9 6.3zm29.2 .5zm27.7 8.8zm-47-1.8zm-22.4 1.5zm-224.7-6.5zm-63.4 14.4zm21.2-5.7zm12.7-1.3zm4.9 1.8zm272.7 5.2zm23.4-7zm16 11.4zm-21.6-1.4zm-11.9 4zm-2.4-3.2zm-6.8 1.2zm-303 3.4zm-30.6-3.2zm71.2 6.6zm13.3-1.3zm256.3 13.9zm-4.4-2.8zm-5.5-3.6zm-16.9-.2zm-5.7 2.9zm-6.7 .6zm-225.9 .2zm-13.6-1.7zm-10.3 2.4zm249.7 6.2zm3.4-3.3zm2.6 4.1zm55.2-3.9zm-53.6 12.6zm-8.5-4.5zm-3.8 4zm-178.9 1.2zm-24.8-4.6zm-34.5 12.1zm11-3.1zm40.6 4.4zm144.4 .2zm11.5-5.9zm7.4-.5zm32.7 1.5zm15.1 1.7zm18.2 2.7zm-16.2 6.2zm-19.5-1.2zm-61.9 3.2zm-.8-4zm-10.1 2.4zm-109.9 .1zm-7.4-.8zm-5 0zm-46.8-1.9zm-3.7-.6zm-21.4 5.3zm-5-5.8zm-3.6 8.1zm.3 3.9zm40.1-4.7zm2.4 5.7zm12.3-5.3zm9.9 .9zm11.5 3.9zm6-1.2zm218.8 .1zm-4.9 4.4zm-24.2 6.2zm-32.8-5.1zm-5.8-1.4zm-6.6 .3zm-11.5 4.2zm-4.1-2.8zm-24.7 .2zm-1.3 1.9zm-4 3.3zm-4.2-.1zm-78.6-1.9zm-3.2-4.8zm-27.9 2.1zm-4.5 3.7zm-25.9-1.1zm-40 2.9zm18.5 .8zm7 4.3zm.3-4.3zm14.2 2.3zm28.7-3.6zm38.8 5.7zm7.8 0zm95.1-3.8zm28.6 0zm12.4 3.9zm24.9-.8zm-29.7 7.7zm-40.4-3.2zm-21.3 .8zm-21-.9zm-4.6-.6zm-3.2 2.1zm-5.6 3.8zm-3.2-.7zm-12.2 1zm-83.6-4.5zm-29.8 2.9zm-9 5.6zm108.5 2.3zm36.5 .6zm57.3 .3zm14.6-1.5zm11.5-3.4zm5.1 3.8zm-20.2 2.9zm-39.3 2.9zm-4.1 1.4zm-.6-3.3zm-10 3.1zm-8.9-2.9zm-25.6 6.2zm-49.7-2.1zm-2.7-1.1zm-58.5 2.9zm-6.2-2.4zm-2-3.8zm30.2 9.4zm37.9 3.3zm4.3-5.6zm1.9 5.3zm3.2 2.1zm16.7-5zm5.1 .5zm41.9 3.9zm23.1-3.1zm39-1.3zm161.1 9.8zm-171.3-2.7zm-14.9 .3zm-82.2 .3zm-29.2-2zm-5.6 5.2zm-4.1-4.2zm-9.6 5.1zm-33.1-4.4zm41 11.3zm13.5-5.4zm8.8 5.3zm10.5-5.3zm36.5 9.2zm-11.1 6zm-4.6-2.9zm-20.9-2.8zm220.9 42.4zm17.6 49zm15.2 6.6zm-61.4 40zm-96.9 19.3zm80.1-.9zm16.9-3.4zm1.2 11.9zm-10.6 1.2zm-3.1-7.4zm-127.4 16.2z" stroke="#F8766D" stroke-width="5.2" stroke-linecap="round" fill="none"/><path d="M271.8 95.3zm104.2 1.3zm-21.9 2.2zm-44 4.3zm18.9 14.8zm90.8 2.9zm-106.1 5.6zm-7.9 28.4zm53.2 5.8zm-24.3 5.3zm-3.8-1.8zm97.3 4.3zm-84.6 72.8zm130.3 52.9zm16.8-.1zm15.9-1.3zm-16.3 6.9zm-33.3-3.4zm-89.1 6.5zm139.9 13zm-27 10.4zm-14.8 1.5zm65.9 4.8zm-11.3 9zm-54.6-1.9zm53.2 9.2zm5.2 6.2zm-86.1 .2zm-196.6-1.4zm179.5 13zm76.6-2.9zm31.4 2zm-14.1 8zm-10.5 1zm-84.7-1zm-190.3 3.2zm223.1 4.3zm-68.2 3zm-144.4 1.3zm68.5 11.2zm26.1-.5zm26.7 .7zm45.2-4.5zm50.8 6.7zm6.9-1.6zm13.8-3zm32.9 4.9zm-277.5 7.8zm124.4 3.6zm-46.7 8.7zm52.2 5.7zm-70.6 17.2zm-29.2-2.2zm1.1 15.2zm27.3-3.9zm46.5 0zm33-1.7zm.2 2.8zm-60.9 5.2z" stroke="#00B0F6" stroke-width="5.2" stroke-linecap="round" fill="none"/><path d="M149.9 102.1zm2.2-3.4zm20.6 11.3zm-7.7 .9zm-16.1-4.1zm-7.1-1.2zm-17.1 9.8zm17.1 3.9zm32.2 7.6zm-13.7-4.3zm-9.2-1zm-1.8 4.2zm-10.6-2.6zm-5.5-3.2zm-6.5 1.7zm-3.9-.1zm-13.5 11.7zm3.5 1.9zm11-3.6zm2.4 2.9zm0-6.1zm3.4 .6zm6.6-.9zm9.3 .2zm16.4 1.6zm20.2 5.2zm3.3-1.1zm14.1 3.8zm-12.7 .2zm-27.4 1.8zm-5.6-3.8zm-17.4 7.9zm-2.4-.3zm-20.6 2.8zm20.8 3zm7.7-3.8zm3.6 6.2zm9.3-5zm17.6 .4zm10.5-3.1zm3.5 14.8zm-3.4-5.2zm-23.1 4.9zm-19.5-1.1zm-3.9 .8zm-8.2-1.7zm-8.1 3.2zm-15.2-5.1zm-13.7 1.5zm10.2 5.5zm10.6 .5zm4.1 1.2zm4.5 4.1zm8.7-4.2zm20.5-1.1zm8.9 1zm18-.7zm7 1.8zm12-4.1zm-39 12.8zm-6.3-2.2zm-1.7 2.1zm-23.2 1.8zm-4.5 1zm-10.9-5.6zm-.8 4.9zm-20.2 8.8zm11.9-6.5zm7.2 4.1zm7.5 1.2zm5.3 .3zm7-2.8zm5.1-1.3zm4.3 4.9zm2.9-6.4zm15.1 3zm12.1-3.9zm6.8 7.9zm-21.2 7zm-20.2-6.2zm-.5 5.9zm-3.5-5zm-34 13.2zm11.2-4.7zm8.7 1.1zm8.8 4.2zm2-3.3zm6.9-1.1zm13.7 2zm4.9-2.9zm12.4-.1zm12.1 .1zm-3.8 7.2zm-37.6-.2zm-9 1.9zm-7.8 2.5zm-20.1-1.5zm35.4 7.8zm5.3-1.9zm10.4 0zm5 1.1zm32.9 10.3zm-11.9-.1zm-37.9-2.2zm73.2 25.4zm-54.8 16.6zm39.8 4.9zm260.3 13.6zm-254.2-4.4zm-26.6 10.2zm75.2-1.7zm282.5 .7zm9.8-2.2zm-17.8 7.5zm-3.1 2.9zm-1.6-1.7zm-323.1 5.3zm174 1.3zm120.1 5.6zm-15.7 8zm-20.6-.3zm-20.8-3.6zm-61.7-1.8zm-8.9 2.2zm47.7 4.6zm9.4 4.9zm35.4-1.6zm1.3-2.9zm23.7 .4zm1.9 9.9zm-9.8 1.9zm-5.1-3.1zm-6.7 3.9zm-8.4-5.2zm-22.4-.4zm-17.9 2.7zm1.3 6.4zm34.3 3.5zm23.7-4.4zm23.3 5.1zm16.1-1.4zm-53.6 6.6zm-29.9-.9zm-10.1 14zm34.4-4.9zm11.5-3zm42.9 8.1zm-4.7 3.5zm-2.8-1.2zm-21.9-.1zm-22.4 4.7zm-28.6-.1zm-2.5-.6zm-8.5-2.7zm-5.5 1.3zm59.2 5.5zm23.5 1.9zm-21.4 7.3zm-37.5 .6zm-4.1 3.2zm4.9 .6zm10 2.9zm11.2 4.7zm12.7-.2zm3.3-2.3zm25.6-3.6zm17.5 2.2zm-35 4.7zm-12.5 3.6zm-31.8-4zm-226.7 12.3zm.5 2.7zm269.8 6.4zm-6.2 1.1zm-7.7-4.9zm-7.5 2.6zm-240.3 5.1zm169.1-.9zm-154 34.6zm-14.6 2.8zm-1.5-5.7zm35.5 14.3zm3.9-4.8zm9.2 13.3zm-47.6 .4zm2.1 4.3zm18.5-3zm32.3 5.4zm24.4 2.8zm-23.2-.7zm-6.4 3.6zm-10.8 1.7zm-11.7-4.6zm-10 12.3zm13-.9zm15 3.6zm21.2-.7zm-13.6 1.3zm-8.8 5.7z" stroke="#A3A500" stroke-width="5.2" stroke-linecap="round" fill="none"/><path d="M356.9 111.3zm158.9 209.1zm-103.3 31zm65.4 13.8zm-70.7 14.3zm109.6 .3zm-3.3 18.5zm-46.1-1.2zm-103.4 8zm117.5 1.6zm-48.1 8.6zm-18-6.8zm-115.9 20.8zm7.6 .5zm-20.1 43.3zm-14.9 6.8z" stroke="#E76BF3" stroke-width="5.2" stroke-linecap="round" fill="none"/><path d="M334.7 99.1zm-198.3 8.6zm191 16.4zm18.6 .9zm17 38.9zm-208.6 1.6zm192.9 5.6zm201.5 109.4zm-18.5 7.2zm-120.9 61.9zm-177.3 38.4zm14.9 11zm174 15.9zm-7.5-4.1zm-4.9-2.4zm-62.4 5.4zm-108.9-4zm58 10.1zm101.7-2.5zm9.7 7.8zm-55.3 3.5zm-58.5 8.2zm40.6 9.5zm-85.4 4.4zm62.8-2zm103.2 5.3zm-92.6 4.8zm-66.5 2.1zm-34.7 9.6z" stroke="#00BF7D" stroke-width="5.2" stroke-linecap="round" fill="none"/><path d="M370.9 55.7zm19.3 2.2zm-37.5 4.9zm-10.8 0zm22.3 8.5zm21.5-5.8zm7.8 5.5zm15.2-2.9zm14.6-2.1zm3.3 5.5zm13.8-.5zm8.7 4zm-23.8 1zm-30.4 1.3zm-27.7-2.5zm-9.8 3zm-24.3-2.7zm-17.3 3.1zm-20.9 .6zm-16.6 1.9zm11.3 2.2zm5.9 3.5zm63.1-4.2zm67.3 5.6zm37.5-4.2zm-10 7.4zm-35.4-1.5zm-35.2 1.5zm-23.5-2.8zm-50.9 5.4zm-12.1-2.7zm-13.5 1.3zm-6.2 .8zm4.3 3.6zm14.7 4.6zm31.8-5zm50.2 6.3zm63.6 0zm17.7-.7zm6.7 1.2zm-21.6 6.7zm-20.4-1.1zm-53.8-.9zm-16-2.6zm-197.1 1.2zm-5.8 12zm30.2-5.3zm.6 4.6zm150.8-1.7zm79.4-1.5zm8.1 1.9zm18.2 3.3zm7.5 .3zm1.9-3zm11.2-3.9zm5.3 3.2zm.6-4.1zm3.8 5.1zm3.5 3.9zm-36.3 .4zm-127.5 6.5zm-172.9 6zm8.2-3.9zm44-1zm107.8 1.1zm39.4-1.9zm82.6 0zm15 4.9zm15.3 2.6zm15.8 .1zm-17.5 7.7zm-5.3-2.9zm-7.6-1.7zm-12-1.2zm-2.5 .8zm-250.8 3.8zm-10.6 .1zm-43.4-3.2zm23.7 8zm9.2-.9zm165.3 4.5zm122.5-1.7zm15-3zm15.6 1.2zm.9 4.4zm12.9-4.3zm-21.2 11.3zm-11-5.8zm-36.4 3zm-199-2.5zm-5.2 4.2zm-.1-5.3zm-35 7.5zm-.6-5.2zm-27.6 8.8zm6.9 .9zm48 1.4zm242.7 .9zm.7-4zm4.4 3.1zm8 .5zm2 7.6zm-9.2 .9zm-12.2 .8zm-8.6-2.8zm-2.7 1.2zm-259.6-1.2zm-4.1-2zm-32.5-.9zm-.8 9.6zm42.2 2.5zm28.1 .2zm3.5 1.1zm7.6-5.4zm201.8-.3zm16.2 5.7zm14-2.9zm22 .5zm-1.2 4.9zm-7.9 4.7zm-29.1-3.1zm-3.5 1zm-6.3-.4zm-198.7-3.1zm-60.5 3.3zm231.4 10.8zm12.9-3.2zm50.3 4.6zm-22.7 .6zm-48.5 5.2zm-11.8 0zm-191.4 6.2zm10.2-4.4zm41.2 2.2zm137.1-1.9zm13.9 1.2zm62.8 .5zm6.9 3.1zm-48.1 7.6zm-1.4-3.3zm-9.4 .8zm-17.4 2.6zm-.6 2.6zm-12.8-.7zm-8.5-5.8zm-120.5 3.4zm-42.6 3.6zm-37.1-4.5zm11.5 12.2zm34.5-3zm12.1-3.5zm5.8 1.2zm138.5 5zm9.5-5.1zm40.9 5.4zm19-2.1zm-47.9 6.8zm-34.9 3.2zm-5-.7zm-11 .5zm-30-1.4zm-74.6 1.8zm-7.3-4.5zm-3.3-2.8zm-14.1 3.1zm-13.5 3.6zm-2.1-4.1zm-4.2 3.6zm-13.4-1.1zm-12.7-3.6zm-6.6 6.1zm-2.3-6.5zm16.7 11.3zm13.3-2.9zm12.1 .8zm37.7 1.6zm3.2 1.5zm63.1-3.9zm13 14zm-77.7-2.8zm-27.5-2.6zm-5.5 4.7zm-4.6-3.5zm-24 1.3zm-12.3 2.9zm-2.6 5zm36.1 .5zm22.5 2.1zm17.5-.9zm12.9-6.2zm5.7 3.1zm5.2 .2zm11.4 2.9zm3-5.5zm6.6 .9zm4.6 5.4zm27.7-4zm8.1 1.2zm10.2-3.3zm57.1 11zm-3.2-2.3zm-4.1-.6zm-11.4 2.7zm-7.9-3.9zm-13.4 .1zm-13.8 3.6zm-8.4 3.9zm-53.8-.1zm-1.4-5.9zm-23.5 1.5zm-22.2-.3zm-5.5 4.7zm-.7-3.5zm-14.5-2.2zm-5.8-.2zm-4.9 5.2zm-4.5-5.4zm22.8 8.3zm13 5.1zm38.2-5.3zm12.2 5.9zm10.1-2.3zm24.7-4.9zm21.2 2.6zm40.6-1zm4.6-1.9zm-18.4 10zm-39.8 2.4zm-41.1 1.3zm-35.1-2.6zm-1.2 3.5zm-6.9-6.2zm-6.1 3.9zm-5.5-2.4zm-26.8 6zm23.3 7.1zm23-4.9zm10.3 5zm54.7-2.8zm103.2 1.9zm-104.5 2zm-12.3 1.1zm-26.5 5.4zm-23.9-3.3zm259.1 74.5zm-11.2 10.4zm-31 2.1zm-16.8 23.4zm1.1 48.9zm-10.7-1.7zm6.6 7.9z" stroke="#F8766D" stroke-width="5.2" stroke-linecap="round" fill="none"/><path d="M153.5 101.6zm215.3 9.7zm-185.4-4.2zm-11.9 4.4zm-10.7-3.9zm-1.2 10.6zm22 5.6zm-3 3.2zm-11.6-6.9zm-4.2 7.9zm-3.8-2.3zm-4-5.2zm-.5 3.3zm-2.8 2.2zm-.7-2.1zm-14.7 .2zm-16 .7zm-.9-2.8zm21.1 6.1zm11.5 3.2zm7.5 .4zm6.1-1.7zm6.8 11.6zm-12.5-5zm-39.3 1.5zm-9.3-.7zm-15.3 13.1zm16.7-.7zm23.7-.8zm13.8-2.2zm2.3 5zm180.9-1.4zm-135.9 7.4zm-5.6-.4zm-8.9-1zm-.1 2.8zm-32.9-7.2zm-8.8 .2zm-5.7 2.9zm-17.3-.9zm-14.6-.6zm-10.4 5.2zm23 2.7zm1.4-1.2zm37.8 1.9zm2.9 3.6zm8-5zm5.6 5.5zm.8-4.7zm9.1 4.3zm4.9-2.8zm-15.5 10.5zm-18.4-2zm-.8 1.9zm-5.5-.5zm-5.8-4.6zm-18.3 .3zm-20.7 2.2zm-15.7 6.6zm10.5 0zm26.8 1.1zm1.4 3.4zm31.8 .2zm4.4 .3zm1.4-6zm19.5 8.5zm-18.9 1.3zm-18.7 5.5zm-18.2-1.7zm-9.5-.5zm-8-4.6zm-6.1 2.3zm-16.2 .8zm9.5 4.4zm3 6.8zm2.2-2.4zm50.5-4.7zm1.9 11.2zm-9.6 3.8zm-34.6-6.5zm-7.1 5zm23.9 7.1zm78.2-.8zm96.9 25.3zm-167.9 3.9zm173.8 3.9zm-75.3 8.3zm-14.8-4.6zm-51.1 1.3zm-4-1.8zm-20.7 10zm110.5-.1zm11.6 4.2zm-53.7 8.8zm53.9 15.2zm280.7-.2zm-10.1 7.4zm-.9-4.4zm-2.6 4.4zm-160.1 .4zm.1 9.1zm.4-3.5zm81.4 9.2zm-4-2.3zm-.9 3.1zm-11.6-.3zm-21.4-1.1zm-2-3zm-12.9-.9zm-34 2.9zm-12.4-1.2zm-.6 2.7zm-2.9-2.2zm75.3 7.9zm25.1-.3zm10.6 5.1zm66.6 7.5zm-10.6-3.2zm-34.1-3.1zm-11.1 1.4zm-8.1 4.6zm-31.2-.2zm-20.8 1zm-46.9 4.7zm159.1 1zm-38.3 7.3zm-15.4-4.1zm-10.2 .9zm-21.2 5zm-19.7 .1zm-3.6 .6zm14 7.8zm24.8-3.7zm3.5 1.7zm7.6-.3zm18.8 1.9zm35.5-6zm10.8 9.9zm-7.2-1.9zm-46.7 7.2zm-5.5-.1zm-5-1.6zm-56.4-4.1zm-14.6 12.7zm66.2 1.5zm11.8-1.7zm14.2 8zm-16.7-5.7zm-3.6 2.4zm-23.2-1.9zm-14.5 2.5zm-2.2 1.5zm-8.7-2.5zm18.7 11.9zm3.3-2.1zm9 .9zm26.5-.8zm3.2 .6zm8-1.1zm1.9-2.8zm30.2 10.2zm-24.6 1.8zm-2.5-3.6zm-19.6 1.8zm-38.7 4.7zm-4.9-7.7zm-219.4 7.1zm7.3 3.9zm261 2.1zm9.2-.9zm20.7 4.6zm-12.5 1.7zm-25-2.4zm-251.8 3.1zm-11.6 4.6zm2.2 6.1zm9.2-3zm36.8 44.4zm-1.4-3.3zm-22.9-2.6zm-17.1 4.4zm9.7 16.3zm10.5-4.4zm2 2.4zm20.4 10.8zm-8.5-4.8zm-24.6-.3zm-3.3 7.2zm19.4-.2zm19.1 .8zm15.7 9.1zm-32.2-1.9zm-4.2 1.4z" stroke="#A3A500" stroke-width="5.2" stroke-linecap="round" fill="none"/><path d="M361.5 76.1zm19.7 27.7zm-96.2-7.7zm18.9 10.6zm49.4 2.3zm-56.1 3.7zm56 8.2zm-19.4 13.6zm-16.3 23.9zm20.2 .9zm9.2 2.4zm6.8 6.7zm75.2 36zm30.8 79.4zm1.5-2.4zm34.3 27zm-28.2 10.7zm40.6 .7zm-28 2.8zm2.9 9.2zm1 3.8zm52-4zm-301.2 15.7zm222.4 9.9zm53.8 3.4zm-7.6 1.6zm-23.6 5zm-247.9-7.1zm290.6 10.1zm-3.5 12.5zm-275.8 6.7zm113-3.2zm36.3-.9zm112.2-.6zm.2 6.7zm14.6-2.1zm4.9-4.7zm-7.4 12.3zm-22.9 2.1zm-139.5-5.4zm-12.8 1.3zm-40.6 2.1zm-50.1-1.9zm174.8 11.5zm4.5-3.6zm23-.3zm17.8 1.5zm-42.8 6.2zm-21.3-1.7zm-1.9 4.3zm-44.2 .8zm-16.9-3.2zm-37 3.7zm-59.2-3.4zm52.2 12zm57.8-5.7zm.8 3zm45.2 1.9zm4.5-.5zm-2.7 4.7zm-65.7 3zm-26.2 9.8zm23.5-6.5zm47.2 14zm-21.9-3.5zm-18.8 .6zm-5.9-.8zm-30.2 2.1zm-1.7-3.2zm-65.8 9.2zm27.7 1.4zm34.5-3.6zm8.7 5.9zm-2.3 4.9z" stroke="#00B0F6" stroke-width="5.2" stroke-linecap="round" fill="none"/><path d="M345 90.9zm17.6 4.5zm46.8 28.6zm-245.9 31.7zm164.1-1.8zm-197 24.5zm-12.5 4zm9.8 18.2zm209.6 66.7zm-105.7 115.7zm11.8 .4zm266.8 6zm-132.9 .9zm-135.9 7.2zm261.6 5zm-262.5 7.8zm55.4 .3zm127.5 9.3zm-90.3 2.6zm7.4 9.3zm20.2-2.4zm-51.9 3.8zm-31.3 1.4zm6.4 8.2zm1.7 5.1zm66.6-1.3zm12.3-3.4zm12.8 1.9zm41.4 5.1zm-91.1 1.1zm-29.6 5.7z" stroke="#00BF7D" stroke-width="5.2" stroke-linecap="round" fill="none"/><path d="M307.3 109.8zm-22.3 15.6zm230.4 204.1zm-43.5 6.6zm-74.6 38.1zm-24.1 23.5zm109.6 5.4zm-206.9 35.5z" stroke="#E76BF3" stroke-width="5.2" stroke-linecap="round" fill="none"/><circle cx="597" cy="256.8" r="13.8" fill="#F8766D"/><text x="620" y="267.1" font-size="28.6" text-anchor="start" fill="#000">Normal</text><circle cx="597" cy="311.8" r="13.8" fill="#A3A500"/><text x="620" y="322.1" font-size="28.6" text-anchor="start" fill="#000">Early KIC</text><circle cx="597" cy="366.8" r="13.8" fill="#00BF7D"/><text x="620" y="377.1" font-size="28.6" text-anchor="start" fill="#000">Late KIC</text><circle cx="597" cy="421.8" r="13.8" fill="#00B0F6"/><text x="620" y="432.1" font-size="28.6" text-anchor="start" fill="#000">Late KPfC</text><circle cx="597" cy="476.8" r="13.8" fill="#E76BF3"/><text x="620" y="487.1" font-size="28.6" text-anchor="start" fill="#000">Late KPC</text></g>
<g id="panelB"><text x="884.6" y="32.8" font-size="45" text-anchor="start" fill="#000">B</text><path d="M922.4 27.2V518.4H1481.0" fill="none" stroke="#1a1a1a" stroke-width="1.5"/><line x1="1052.3" y1="518.4" x2="1052.3" y2="521.4" stroke="#1a1a1a" stroke-width="1"/><text x="1052.3" y="531.6" font-size="10.4" text-anchor="middle" fill="#000">−4</text><line x1="1192.5" y1="518.4" x2="1192.5" y2="521.4" stroke="#1a1a1a" stroke-width="1"/><text x="1192.5" y="531.6" font-size="10.4" text-anchor="middle" fill="#000">0</text><line x1="1332.7" y1="518.4" x2="1332.7" y2="521.4" stroke="#1a1a1a" stroke-width="1"/><text x="1332.7" y="531.6" font-size="10.4" text-anchor="middle" fill="#000">4</text><line x1="1472.9" y1="518.4" x2="1472.9" y2="521.4" stroke="#1a1a1a" stroke-width="1"/><text x="1472.9" y="531.6" font-size="10.4" text-anchor="middle" fill="#000">8</text><line x1="919.4" y1="124" x2="922.4" y2="124" stroke="#1a1a1a" stroke-width="1"/><text x="915.8" y="128.4" font-size="10.4" text-anchor="end" fill="#000">5</text><line x1="919.4" y1="250" x2="922.4" y2="250" stroke="#1a1a1a" stroke-width="1"/><text x="915.8" y="254.4" font-size="10.4" text-anchor="end" fill="#000">0</text><line x1="919.4" y1="376" x2="922.4" y2="376" stroke="#1a1a1a" stroke-width="1"/><text x="915.8" y="380.4" font-size="10.4" text-anchor="end" fill="#000">−5</text><line x1="919.4" y1="502" x2="922.4" y2="502" stroke="#1a1a1a" stroke-width="1"/><text x="915.8" y="506.4" font-size="10.4" text-anchor="end" fill="#000">−10</text><text x="1201" y="545.3" font-size="12.2" text-anchor="middle" fill="#000">UMAP_1</text><text x="894" y="272" font-size="12.2" text-anchor="middle" fill="#000" transform="rotate(-90 894 272)">UMAP_2</text><path d="M1244.8 294.6zm6.3 9.4zm-139.4 71.4zm14.9-4.1zm-21.7 6.8zm-26.2 13.6zm21.3-1.7zm13.8 1.2zm11.9 2.6zm-4.2 4.3zm-38.6 6.5zm.8-3.4zm.3 4.8zm7.1-5.9zm31.8 17.6zm-8 5.8zm-23.9 9.6zm55.9 14zm-14.4-5.4zm-31.7 13.5zm9.5-4.7zm8.4 3.1zm3.8 1zm.5-5.5zm30.2 7.1zm-21.9 1.3zm-13.6 5.6zm-27.3-3.9zm11 8zm2.4-2.1zm1.7 6.8zm8.9-6.3zm4.4 1.4zm4.1 2.4zm.9-3zm15.7 2zm14 1.6zm7.1-.3zm20.2 9.5zm-6.7-6.2zm-3.6 1.5zm-32.2-.9zm-27.3 8.8zm18.4 2.2zm17.6-3.5zm11.7 2.5zm10.8 2.1zm-42 8.5zm-1.5-4.8z" stroke="#619CFF" stroke-width="4.7" stroke-linecap="round" fill="none"/><path d="M1208.3 63.4zm2.6-4.1zm9.6 4.6zm64.2-.7zm1.2-5.3zm28 4.3zm17.1 7.3zm-74.4-2.3zm-12.6 2.3zm-10 1.9zm-7.6-.1zm-9.4-5.6zm-17.3-.7zm-.8 3.2zm-1.8-2.6zm-17.5 3.9zm-13.6 6.7zm29.1 3.4zm27.4-7.2zm8 .9zm25.8 6.1zm21.7-4.9zm45.4-2zm16 10.8zm-9 .3zm-10.2-3.2zm-29.1 5.7zm-121.9-3.1zm-12.1 3.2zm-7.8 3.5zm15.2 2.8zm9.6 2zm27.5-3.4zm9-1.5zm24.7 2zm11.1 2.1zm16.5-3.4zm6.1 1.2zm6.5 .3zm89 .7zm-8.5 3.9zm-14.7 2.7zm-20.3 2zm-4 1.5zm-42.7-3.9zm-16.9-.5zm-.4 4.1zm-22.3-4.2zm-18.8 5.7zm-9.5-2.2zm-13.9 1.6zm-30.7-.1zm-113.7-6.1zm-17.6 1.5zm-14.5 2zm-12.3 .9zm6.4 6.2zm38.6 4.4zm.2-5.6zm128.5 1.9zm3.3-1.6zm14.9 3.4zm23.9 .4zm28.5-4.4zm1.2 5.4zm66-6.6zm18.9 4.8zm25.3-2.8zm-36.1 6zm-17.7 3.4zm-54.7-1.6zm-4.8-1.3zm-1.9 5.9zm-9.1-3.4zm-3 .9zm-19.1 1.7zm-6.2-1.1zm-33.3-3.1zm-118.1 4.6zm-6.5-2.2zm-10.5-1.6zm-5.2 3.4zm-17.2-4.7zm-34.3 11.2zm5.5 2.8zm3-4.3zm2.6-1.9zm23.1 .7zm27.2 .9zm18.7 1.6zm3.2-2.6zm3.2 5.4zm104.3-3.2zm1.7-2.9zm6.9 4.9zm24.5 .9zm3.8-4.8zm8.8 3.8zm10.7-.6zm46.5-.8zm41.3-2.2zm10.8-2.2zm25.9 6.5zm6.9-1.4zm4.6-2.6zm11.5 10.3zm-25.7-2.4zm-9.7 1.4zm-21.3-.4zm-2.3-3.2zm-245.6 1.4zm-4.5 1.9zm-10.7 1.7zm-5.4 2.3zm-11.1-2zm-2.8 .8zm-8.8-3.5zm-29.3-3.1zm-2.5 2.8zm-2.3 5zm-23.3 3.2zm33.2 0zm18.1 3.1zm42.8-2zm112.7-1.2zm12.3 4.7zm2.4-3.4zm6.5-3.3zm3.7 1.4zm148.9-1.6zm32.8 11.6zm-4.8 1.2zm-45.8 .9zm-13.5-5.1zm-4 1.6zm-122.5-2.8zm-111.9 1.8zm-9.9-.7zm-7.6-1.3zm-1.3 2.4zm-6.6 3zm-17.2-1.6zm-11.5 2.4zm-33-5.3zm-2.2 3.2zm-13.5 1.3zm-2.5-4.2zm-4.4 0zm-3.1 .6zm-3.5 .7zm-9 3.5zm5.8 8.8zm4.5-2.7zm4.9 2.8zm4.8-6.5zm1.3 5.3zm1.8-5.7zm1.6 1.9zm4.6 5.8zm2.1-4zm1.5-3.4zm7.2 5.6zm20.3 .8zm27.2-4.4zm24.9-2.1zm151.5 6.5zm97.4-4.2zm6.6-1zm20 1.2zm12.6-1.6zm13.6 13.5zm-9.1-5.4zm-3.2 6.5zm-17.7-7zm-248.3 2zm-17.9 3.3zm-29.1-4.3zm-1.1 4.3zm-2.3-5zm-4.4 2.9zm-.7-3.1zm-2.7 1.6zm-18 4.1zm-17.5-4.6zm-8.4-.7zm-10.7 2.5zm-9.9 2.8zm-5.3 6.2zm13.4-1.5zm21.8 3.2zm5.8-4.9zm300.7-1.2zm0 4.7zm39.2-4zm7 8.1zm-20.4 4.4zm-3.1 0zm-11.8-.2zm-259.5-4.4zm-16.8 6.1zm-3.6-5.6zm-.7 4zm-5.8 1zm-2.3-6.3zm-9.8 4.8zm-24.5 .4zm-1.1 1.9zm-4.8 .5zm-8.4-2.2zm-5.4-5.3zm-10.1 7.4zm-8.5-3.2zm24.9 9.3zm10 2.1zm14.8-7.1zm19.1 3.9zm13.2-.8zm7.4 3zm19.1-6.3zm262.9 2.3zm17.8 3.1zm-20.1 6.8zm-3.2-.3zm-13.9-3.3zm-22.5 2.4zm-269.1-3.6zm-4.7 3.3zm-3.3-.5zm-30.2-1.3zm-17.9 7.3zm19.3 4.6zm22.2-2.6zm1.4 4.9zm12.7-7.1zm25.2 4.8zm3.6 .2zm33.5 0zm249.3 .1zm21.9-1zm.8-3.1zm-22.1 13.4zm-10.2-4.6zm-33.4 3.4zm-2.6-3.9zm-263.5 1.5zm-32.3 2.5zm-.2-2.9zm-4.2-2.3zm-10.9 0zm21 14.9zm.5-5.1zm28.3 5.3zm18.4-5.2zm7.3 4.1zm4.3-1.3zm41.7-2.9zm7.7 3.3zm154.8-4.2zm10.2 2.4zm30 3.6zm17-4.6zm2.4 .5zm4 2.8zm-6.5 7.6zm-33-5.5zm-13.3 4.7zm-10.8-.6zm-50.8-2.1zm-117.7 2.9zm-13.6-3.8zm-14.6 1.4zm-63.6 4.9zm23.8 4.6zm14.9-3.3zm6.4 1.2zm.9 3.9zm19.1 .8zm119.4-4.2zm1.8 4.1zm10.4-4.7zm16.2-1zm28.8 .2zm22.3 4.2zm9.2 2zm18.2-5.8zm.5 3.4zm7.8-3.6zm7.9 .5zm-14.3 7.7zm-11.2 4.5zm-14.6 1.5zm-63.8-3.3zm-39.6 .5zm-38-.2zm-21.6-3.7zm-11.3-.3zm-14.5 5.3zm-47.4-1.3zm-18.9 2.9zm-3.8 6.6zm22.1 .5zm20.4 0zm20.5-.5zm24.1 1.1zm24.3-4.9zm4.6 2.3zm45.5 2.8zm30.9-4.5zm50.5-1.3zm6.4 .4zm24.2 3.5zm3.7-.2zm7.1 1.2zm-6.3 2.6zm-36.9-.4zm-18.7 0zm-14.6 5.3zm-46.3 1.3zm-11.7-5.9zm-19.8 .3zm-41.1-.6zm-23.5-.6zm-11.2 4.4zm-15.1-4.8zm-.1 11.2zm24.2 1.4zm30.9 .8zm8.3-.2zm14-2.7zm15.8-1zm3.3 5.8zm8.1-6zm39.6 1.7zm2.3 4.4zm23.7-5.4zm14.1 1.9zm.7 5.2zm-.6 3.3zm-58.8-.6zm-17.4-1.3zm-27.2 1.3zm-51.1 .6zm-27.9-.8zm-11.1 .7zm-15.9-4.2zm25.3 11.4zm.7-3.2zm47.9 1.3zm13 1.2zm27.9 .8zm19.6-3.5zm27.4 6zm-10.5 4.8zm-2.2-2.2zm-10 3.3zm-24.2-2.2zm-7.6 5.8zm-16.9-4.4zm-17.3 1.7zm-28.8-3.5zm81.8 10.9zm204.3 82.6zm-43.1 69.5zm1.3-1.8zm18.7 4.5zm1.2 2.6zm-20.9-.3z" stroke="#F8766D" stroke-width="4.7" stroke-linecap="round" fill="none"/><path d="M1255.8 142.3zm2.3 2.5zm-21.1 7.2zm204.5 132.7zm-11.1 1.8zm-89.4 2.1zm4.9 4.8zm62.2 4.9zm-32.4-2.1zm-37.1 1.7zm-35 4.6zm-2.5 2.7zm2.7 1.4zm9.6 4.9zm9.9-2.3zm5.5 .1zm6.5-3.3zm52.3 5.9zm32.4-7.3zm-14 14.7zm-29.7-7.2zm-24.5 4zm-49.8 11.8zm14.9-5.5zm106.2-1.9zm7.5 8.8zm-6.7-1zm-6.9 4.4zm-3.8 1.3zm-6-1.5zm-9.7-3.1zm-44.8 5.3zm-12.1-1.8zm-17.8 8.5zm8-4.5zm46.1 1.7zm8.7 3.2zm4.5-5.3zm2.8 2.8zm6-3.2zm14 3.5zm0 4.1zm3.6-1.1zm14.6-6.1zm9.1 .7zm4.5 2.5zm-10.2 9.5zm-46.5-2.9zm-6.8-2.1zm-7.2-.1zm-15.5 .2zm-22.6 3zm-7.3 2.6zm-1.3-3.4zm-42.1 3.6zm17.9 8.7zm9.3-5zm5 .6zm37 4.9zm12.7-1.2zm5.4-4.3zm35.7 5.1zm10.6-5.4zm-12.7 11.7zm-8 .3zm-2.9-1.9zm-13 3.6zm-16.1-1.5zm-2-3.3zm-12.8 1zm-3.1 1.9zm-8.3-3.5zm-1.6 3.1zm-2.1-3zm-33.7 11.1zm40.5 1.8zm10.9-2.4zm23.8 3.4zm23.5-3.9zm3.2 .7zm3.1-3.5zm14.9 4zm-4.1 8.5zm-5.7-2.2zm-.4-3.2zm-22.4 5.4zm-6.4-2.5zm-58.1-.5zm-10.9 3.8zm-23.2-5.4zm-15.1 2.1zm-12.3 4.9zm68.6 1.2zm20.7 4zm12.3-.1zm18.1 1.7zm8.3-4.3zm9.9 4.7zm1.7-5.2zm10.4 7.1zm-9.5-.5zm-15.4 4.7zm-2.6 1.2zm-14.7-.2zm-39.8-5.4zm-32 2.4zm-82.3-2.7zm-8.6 .1zm-13.6 1.2zm-7.4 7.6zm2.6 3.5zm93.4-2.3zm28.3-1.8zm7.3-.2zm32.4 5.5zm6.1-3.8zm3.1 1.9zm18.8 3.8zm-106.4 5.8zm-30.9 .4zm-1-3zm-33.1 2.6zm-11 .7zm-10.1-1.6zm1.8 4.2zm17.7 1.7zm35.6 4.2zm17.6-1.7zm60.9-4.2zm-83.1 14.3zm17.2 3.7zm1.9 4.6zm17.4 .1zm-8.7 7.5zm-5-4.5zm-10.4 1.7zm-89.7-1.6zm84.8 5.5zm-46.4 9.2zm-25.3-.3z" stroke="#00BA38" stroke-width="4.7" stroke-linecap="round" fill="none"/><path d="M1072.4 229.1zm190 65.8zm-14.7-1.2zm-.8 13.3zm2-1.4zm-135.8 36.7zm-12.3 11.1zm4.6 3.2zm16.4-1.8zm-17.7 15.5zm11.1 18.4zm8.8 1.9zm53.5-6.1zm-93.9 14.5zm-2.2 15.5zm9-4.2zm.9 1.5zm30.7 9.7zm-38.8-4.9zm34.4 10.5zm-24.7 8.8zm-4.7 11.2zm2.3 0zm7.4-2.3zm3.7-2.8zm26.7-.7zm-19.8 12zm-3.2 .6zm-6.4 9.1zm2.6-4.9zm5.1 5.6zm5.8-5.7zm2.1 2.7zm43.9 .9zm-6.4 5.5zm-5.7 1.4zm-36.5 0zm-17.7 3.8zm5 5.2zm11.4 2.1zm3.5-.3zm37.8-1.4zm1.7-2.5zm3.7-2.8zm6.4 4.7zm.5-3.8zm16.5-.2zm1.8 3.3zm2-2zm-4.9 9.1zm-22.9-1.9zm-5.4 1.8zm-50.6 4.1zm24.5 1.2z" stroke="#619CFF" stroke-width="4.7" stroke-linecap="round" fill="none"/><path d="M1238.9 53.5zm24.9-2.7zm3.4 2.8zm11.6-4.2zm-14.9 11.1zm-6.5 .9zm-15.2-4.6zm-35.1 3.4zm17.9 4.4zm23.5 3.2zm29.4-.6zm34.9 .8zm4.9-1.7zm1.1 3.9zm6.7-1.4zm2.3 2.4zm8.9 6.6zm-44.8-3zm-4.3 4zm-2.4-6.6zm-56.5 6.5zm-37.8-4.1zm-3.2-1.4zm-8.7 .5zm-30.1 4.8zm3.3 2.5zm3.4 3zm3.9 .5zm9.6 1.8zm31.1-3.5zm2.5-2.5zm20.7 6.9zm3.1-4.9zm3.1-.2zm13.2 3zm2.9-3.1zm43.5 .2zm4.4-1.9zm14.8 7.6zm7.8-4.8zm32.3 .2zm-2.1 4.9zm-17.1 6.9zm-31.4-4zm-13.8-1.9zm-56.1-.8zm-4.8 5.3zm-13.7-1.2zm-41.6-2.8zm-143.6 5.9zm-11.9 4.7zm31.8 2.8zm123.6-4.1zm16.4-3zm29.6 5.4zm21.1 1.1zm2.4-6zm23.4 .4zm2.6 4.7zm16.4-2.1zm26.6-.3zm18.9-3zm9.2 2.2zm27.9 5.1zm5.3 7.9zm-15.1-6.2zm-16.5-.9zm-7.3 3.5zm-74 1zm-4.4 .4zm-56.5-2.8zm-19.6 3.7zm-12.4-1.1zm-104.1 0zm-.4-2.6zm-3.8 1.2zm-11.1 4zm-14.6-5.1zm-10.6 1.2zm-17.2-2.6zm-4.8 6.7zm7.1 .6zm14 6.2zm11.4-5.9zm14.7 1.6zm5.8 4.6zm8.8-6.8zm3.2 6.1zm118.4-4.8zm8.2 4.9zm4.7 1.1zm3.5-.9zm30-2.4zm112.4-.2zm4.7-3.6zm3.5 5.7zm3 1zm29.2 1.7zm-18.9 .1zm-39.3 .2zm-82.2-.5zm-41.4 .1zm-8.7 6.9zm-6-4.4zm-6.3 3.4zm-102.7 .1zm-2.4-.9zm-11-3.3zm-58.3 .5zm-11.5 3.9zm-18.5 7.9zm10.4-.2zm8.7-2.9zm10.1 0zm.9 3.4zm1.1-5.9zm6.8 1.9zm.2 2.5zm3.1-1.4zm2.4 1.6zm8.2-2.5zm42.1 2.2zm10.8-5zm115.4 2.3zm6.3 0zm7.5 .9zm7.8 .9zm155 1.5zm5.7-5.8zm.1 6.9zm4.3 5.4zm-3.3 1.5zm-4.1 1.9zm-14.6-6.9zm-12.5 .8zm-141.8 5.9zm-1.7-2.4zm-13.1-3.4zm-125.6 5.2zm-8.6-2.4zm-6.2-2.3zm-6.3-.4zm-32.3 5.8zm-31.1-2.1zm-3.1-.9zm-.5-3.9zm-2.8 5.8zm-11.7 1.9zm9.1 3.7zm4-.6zm24.3 .9zm2.9 3.3zm8.1-3.8zm1.5-2.6zm4.2 5.1zm3.7-4.2zm9 1.9zm.2 2.4zm50.2-6.3zm107.4 1.1zm21.7-.3zm104 4.3zm4.3 1.2zm37.6-4.9zm21.3 .5zm3.2 1.4zm8.1 3.3zm-44.7 5.5zm-16.3-2.3zm-240.7-1.9zm-13.6 3.3zm-23.6-3.2zm-4.6 4.6zm-20.3-2.8zm-11.5 2.7zm-18.3 1.9zm-21.3-4.7zm-13.4 11.8zm18.2 1.3zm12.5-.3zm.2-4.8zm7.6-1.9zm.9 3.9zm8.1-3.5zm17.7 4.8zm1.9 .9zm37.4-2.3zm19.4-1zm226.8 2.9zm5.5-3.8zm9.1 5.2zm13.7-4.1zm8.8 3.2zm16.4-2.1zm0 7zm-26.3-.3zm-9 4.5zm-21.7-6.9zm-264.5-.1zm-2.4 4.5zm-53-2.2zm-26.4 3zm20.5 4.6zm2.4-2.3zm4.4 1.5zm23.2 1.4zm14.7 2.7zm64.1 .1zm232.3-4.1zm9.7-.7zm14.3 2.9zm7.6 4.4zm-6.4 2.6zm-6.4-2.6zm-239.2-.2zm-43.2 5.6zm-4.4 1.1zm-9.6-5.7zm-7.3 2.1zm-3.7 3.3zm-58.5-1zm-7.5 1.5zm-1.1 7.6zm3.6-5.9zm37.4 2.8zm28.3-3.4zm5.7 6.3zm10.2-3.3zm280-2.3zm1.1 6.3zm7.8-2.7zm3.9 .7zm1.5-4.1zm1 6.5zm3.6-5.5zm3.1 2.6zm4.6 2.1zm-8.1 4.6zm-34.8-.9zm-62.2 3.9zm-175.9-5.8zm-49.6 4.4zm-2.6-.2zm-26.3-.1zm-2.4 .4zm-20-1.7zm-2.1-2.7zm34.2 9.9zm36.3 3.1zm27.2-3.4zm180.1 2.9zm11.7-2.7zm27.1 1.3zm8.2-2.2zm22.4 3.6zm-6.6 3.1zm-27.4 1.7zm-11.6 1.5zm-2 4.1zm-174.6 0zm-9.5-2.4zm-26.1-4.9zm-16.9 3.3zm-15.1-.3zm-19.1-1.7zm-21.7-1.1zm58.1 12.7zm181.1-3.2zm39.2-1.2zm12.1 3.8zm-7.6 7.2zm-57.9 .6zm-7.4-1.9zm-35.5 3.3zm-57.4-1.5zm-24.2-2.4zm-50.4-1.6zm-27.3 3.5zm-10.2 9.8zm30 1.1zm20.2-1zm14.1-3.4zm6.1-2zm44.1 5.1zm4.2 2.1zm5.2 0zm39.3-5.3zm38.9-1.2zm4.8 6.9zm1-3.7zm4.9 2.2zm6.4-4zm9.9 3zm4.7-2.3zm7 2.8zm18.8-4.6zm.4 6.1zm40.8-6.6zm-7.7 10.3zm-3.1 .2zm-2.7-.2zm-75.4-1.1zm-6.1 1.7zm-12-.1zm-8.2 2.6zm-33.6 .8zm-62.3-2.3zm-2.9 2.4zm-2-2.9zm-3.7-3.5zm-4.3 1zm-44 4.9zm-32.8 .8zm-1.6-3.3zm16.6 7.2zm13.4 4.4zm35.4-6.1zm21.9 1.1zm49.9 1.5zm1.4-2.7zm36.6-1.2zm7.7 6.1zm10-2.3zm7.2-2.2zm15.5-.7zm.7 5.2zm8.3-3.1zm9.6 .3zm7.5-1.4zm45.1-1.6zm-27 11.5zm-33.6 1zm-26.1-1.8zm-17.2 4.1zm-5.7-5.1zm-47.5 4.7zm-27.5-4.2zm-5 3.3zm-1.4-2.1zm-12.8-.8zm-18.5-.9zm-11.8 5.3zm-25.8-2.6zm14.9 8.4zm9.6 2.5zm20.5-2.8zm2.1-4.7zm88.3 2.1zm23.3-1.3zm39.2 1zm-26 9.6zm-21.9 1.8zm-18.4 .3zm-9.2-1.9zm-77-1.8zm-33.7-.7zm12.8 8.9zm6.7 .1zm3.8 2zm19.3-2.7zm25.6-1.4zm12.1 3.9zm2.3-3.7zm17.9 1.5zm8.3 .3zm6.4 2.7zm22.9-3.9zm9.7 1.3zm-17.9 6.1zm-33.2 6zm-9.9-4.1zm-7.8-1.3zm-20.8 .5zm211.3 148.5zm15.8 14.4zm-7.5 2.1zm-5.7-2.9z" stroke="#F8766D" stroke-width="4.7" stroke-linecap="round" fill="none"/><path d="M1261.8 135.3zm-11.3 22.1zm-54.9 4.4zm17.2-.6zm3.6 4.6zm21.2-1.2zm212.5 114.1zm-94.7 2.6zm91.5 2.4zm-89.7 8.5zm-37.4 8.2zm5.9 2.1zm16.9-3.6zm36.7-2.5zm-17.4 11zm-45.6 3.7zm-1.9-5.8zm-14.6 9.8zm56.6-1.7zm40.1 4zm31.6 7.6zm-31 1.1zm-38.5-5.4zm-33.7 6.3zm-2.8 .6zm-.7-3.2zm6.3 4.5zm2.3 5zm34-.2zm44.7 3.2zm-3.7 2.6zm-46.4-1.9zm-20.5 6.2zm-9.4-4zm-14.2 10.5zm46.2-3zm1.2 3.4zm14.6-4.1zm44.9 8.2zm-12.6-.6zm-7.3 2zm-3.7 .4zm-19.9 .2zm-19.2-3.2zm-4.5-.8zm-4.8 2.6zm-8.3-2.9zm-35.4 4.4zm11.6 3.3zm37 5.8zm26.3-4.2zm7.5 4.7zm41.7-4.9zm.5 3.2zm4.5 7.1zm-5.1-1.5zm-63.8 2.2zm-15.6-2.2zm-.5 2.8zm-33.8-4zm-18 6.7zm-2.2 1.6zm.3 2.3zm22.7 .5zm9 1zm41.6 1.6zm2.6-5.7zm2.9 4.3zm53.3-3.4zm-46.5 8.1zm-10.1 2.6zm-3.2-4zm-8.4 2.3zm-33.1 .7zm-56.1-.4zm-93.8 8.9zm20.5-1.2zm.4 2.9zm32.3-.4zm25.5-3.7zm43.8 4.3zm3.7-2.3zm42.4 2zm6.7-5.2zm10.9-.2zm28.9 5.1zm6.6 4.9zm-10.4-.3zm-72.1 3.9zm-33.7 .4zm-2.1-5.6zm-.1 3.5zm-39 .6zm-40.9-3.7zm-6.6 .5zm-6.4 4.8zm-2.7 2.7zm60.1 2.6zm19.9 3.1zm17.6-3.9zm28.6 1.3zm3.7-2.1zm11.8 4.4zm40.8-3.3zm-40.7 6.5zm-14-.7zm-24.8 3zm-37.6 1.3zm-22.7-3.6zm-47-1zm-2.2 13.7zm23.1-4.6zm32.1 5.1zm26.8 4.8zm-68 4.6zm16.9 2.1zm39.8-1.6zm23.8 .8zm7.7-1.3zm-80.9 9zm-14.5 2.3zm-7.5-3.7zm-.1 7.8zm-1.5 4.4zm3.9-.5zm12.4 1.6z" stroke="#00BA38" stroke-width="4.7" stroke-linecap="round" fill="none"/><path d="M1257.3 149.2zm-30.4 6.1zm-16.7 3.2zm229.6 122.3zm2.2 1.1zm2.5 4.1zm4.9-4.1zm3.3 .1zm-7.6 6.8zm-78.5-.7zm-59.9 12.9zm60.8-2.6zm32.8 .7zm18.9-1.6zm6.8 5.3zm-47 3.6zm-45.9-1zm-1.9-1.2zm-16.6 5zm-10.6 9.3zm19.6-3.9zm66.1 4.8zm5.6-4.7zm33.2 7.7zm-17.4 2.9zm-80.5 1.8zm-17.5 5zm12.3 .2zm12.5-1.7zm25.5-1.4zm27.8 1.9zm14 3.6zm-12.2 7.6zm-19.4-1.4zm-24 .8zm-42.5 2.6zm1.6 2.7zm20.8 .6zm2.9-3.2zm12 1.3zm78.6 4.9zm6.1-.4zm7.4-5.2zm-11.6 12.6zm-15.1-.3zm-26.5 1.4zm-8.3-3.8zm-2.4 1.8zm-8.4 1.5zm-29.2-.3zm-5.4-4.3zm41.3 7.8zm44.8 .6zm10.2 2.4zm-9.3 9.9zm-16.9-.2zm-30.2 1.6zm-22.5-6.5zm-.9 4.4zm-62 2.6zm22.4 4.7zm14.8-4.1zm32.3 2.6zm1.5 2.3zm30 .4zm8.1-5.8zm21.5 5zm9.4 1.4zm.6-4.9zm-5.2 11.2zm-27.6 1.5zm-5.8-5.2zm-57.2 1.3zm-2.5-1.7zm-58.9-.2zm-.7 12.3zm14.7 .2zm65.8-4.2zm27.6 3.8zm.2 3.2zm6.1-7.4zm1.8 4.9zm24-3.3zm4.2 .5zm6-2zm-42.6 10.2zm-8.3-1.4zm-9 4.2zm-44.9 1.3zm-3.2-2.8zm-12.5 3.2zm-113.8 6zm124.8 2.5zm10.9-.7zm52.7-6.6zm1.7 3.2zm-59 8.5zm-4.7-.5zm-65.9-2.7zm-25.8 .8zm-23.4 3.6zm-6.5-1.8zm-13.8-1.5zm61.2 8zm15.4 7.8zm-6.3 4.9zm-20.4-1.6zm-7.1 1.5zm-3-5.1zm-29.7 4.5zm-4-.8zm-.9-4.5zm-3.9 .1zm4.3 7.8zm30.2 4.7zm16-.1zm-54.8 8.3zm12.8 5.2zm5.1 0zm9 1.3zm12.7-3.5zm5 1.2zm-31.9 8.5z" stroke="#00BA38" stroke-width="4.7" stroke-linecap="round" fill="none"/><path d="M1245.6 52.6zm23.9-1.8zm12.9 .4zm-26.3 6.3zm-4.5-.1zm-84.5 12.7zm53.3-.9zm12.5-.9zm41-1.8zm8.1 3.8zm20.4-.7zm21.3-5.6zm16.7 6.8zm-15.8 4.2zm-7.8-1.5zm-14.8 .1zm-82.2 5zm-25-4.2zm-12.5 3.2zm-29.1-.3zm-9.5 9.7zm2.8-1.6zm17.5-1zm46.2 .8zm134.2 .2zm14.8 .7zm-44.8 8.6zm-8.5-3.7zm-32.8 4.1zm-14.8-1.5zm-16.9-4.1zm-7.9 5.8zm-7.1 .1zm-20-7.4zm-.5 2.9zm-6.9 4.2zm-16.4-5.6zm-136.8 11.8zm148.1-3.8zm4.4 1.6zm3.6-2.2zm8 1.9zm10.7 1.3zm2.9-2.6zm5.6 2.6zm1.3-3.3zm12 2.2zm3-1.6zm24.4 6.5zm61.2-6.4zm8.5-1.4zm11 6.9zm8.7-5.7zm-12.8 13.5zm-8.5-.5zm-7.2 0zm-6.5-1.4zm-133.8 .8zm-15.3-4.5zm-122-.7zm-7 4.4zm-16.3-.7zm-2.5 1.8zm-7.7-3.3zm-15.8 10.7zm2.4-2.7zm11.9 3zm9 1.3zm24.8 .5zm12.8-1.6zm144-3.3zm13.5-1.6zm32.3 .6zm54.8 2.9zm14.6 1.7zm1.9-3zm5.4-.3zm35.7 3.5zm10.3 6.1zm-71.5-.5zm-121.5 3.6zm-129 .4zm-6-.4zm-6.7-.4zm-15.5-.7zm-2.3-3.3zm-21.1 .2zm-3.4 2.6zm-2.1-3.3zm-10.5 2.3zm-3.9-1.4zm-1.9 8zm.2-3.3zm10.3-.1zm1.5 1.9zm3.4 4.2zm22 .1zm6.8-2.7zm.2 2.6zm5.5-2.4zm25.9-3.7zm2.5 4.5zm2.9-1.6zm130.9-2.7zm7.8-.4zm5.3 2.7zm19.1 1.2zm79.1-2.8zm3.3 3.9zm1.3-2.7zm21.6 1.1zm7.4-2.4zm9.4 5.3zm7.3-3.2zm23.3 6.1zm-7.9-1.2zm-17.1 4.2zm-23.1 1.3zm-2.8 2.1zm-117.7-3.7zm-162.7 1zm-.9-4.3zm-19.1 1.3zm-2.9 1.3zm-12.4-1.6zm-9.5 5.8zm-.7-5.8zm-20.7 8.2zm11 4.7zm3.7 1.4zm14.3-5.8zm1.5 1.8zm18.1 1.2zm1-2.4zm.6 4.2zm8.7-5.7zm2.1 2.9zm10.2-4.1zm.5 4.5zm2.6-1.3zm3.6 1zm201.4-.8zm60.5 3.5zm4.4-2.4zm3.3 2zm20.6-1zm5.4 0zm4.8-.7zm24.8 4.3zm-9.7 4.9zm-20.5 1zm-3-.7zm-287.8-.1zm-5.5-4.8zm-7.7 4.4zm-2.8-4zm-6.5 .5zm-23.4-1.4zm-4.1 3.1zm-2-2.9zm-.5 2.8zm-12.6-2zm-4.9-1.8zm-1.6 3.9zm-11.9 .2zm-6.5-2.1zm-2.2 1.4zm10.6 10.7zm14 1.4zm11.8-4.8zm3.8 .3zm3.3-1.3zm10.8 4.3zm14.8 1.7zm28.9-1.6zm232.8-3.8zm12.8 1.4zm10.1-.2zm4-1.3zm41 .1zm6.8 3.1zm-22.1 3.7zm-293.8 6.2zm-15.5-5zm-5.2 1.5zm-4.3 4zm-11.1-1zm-27.2-5.3zm-2.1 5.9zm-7.8-6.5zm-2.5 0zm-.2 2.3zm-14.5 3.3zm-15.3 8.6zm2-6.3zm45.6 2zm19.6-1.6zm6 3.5zm5 .5zm.3-4.4zm17.2 4.1zm.8 2.3zm26.7-4.2zm234.7 1.1zm34.7 .2zm14.7 1.8zm-38.5 3.4zm-7 4zm-8.2-1.5zm-15.1 1.6zm-219.2-5.5zm-79.8 6.8zm-9.1-6.4zm-16.2 .4zm-17.2 11zm19.7-1.4zm30.8-1.8zm2.5 2.9zm2.1 2.1zm33.1-3zm1 2.7zm41.4 1.4zm193.6 .8zm45.7-6.7zm41.9 1.6zm-47.2 11.7zm-33.1-3.8zm-198.2 2.9zm-58.5-5.1zm-18.3 5.4zm-11-4.1zm-.6 2zm-1.9-2.3zm-7.7 .4zm-5.7-.3zm-2.5 .2zm-5.2 3.5zm-5.3 1.9zm-7.6-.4zm-2.5-2.7zm20.8 7.3zm.8 3.5zm21.6-1.8zm17.6-3.6zm5.9-.9zm4.7 .5zm5.4 2.1zm209.7-1.8zm16.9 2.5zm6.2-.1zm10.2-.9zm34.6 2.3zm-7.6 8.4zm-8.5-.7zm-59.8-1.3zm-18.2 3.1zm-3.2 1.2zm-7-1.5zm-118 .2zm-75 .1zm-5.4-6.1zm-.9 4.7zm-13.6-3.9zm.7 8.5zm1.3 3.4zm10.1 0zm8.9 .7zm16.5 .8zm18.2-3.9zm10.9-.6zm159.4 5.8zm32.8-7.4zm15.6 3.7zm2.9-4.1zm17.3 7.1zm8.9-6.5zm1.5 7.1zm5.4-5.7zm12 .2zm-13.6 9.5zm-7.4-2zm-16.5 3zm-26.2-1zm-7 3.7zm-8.1-1.8zm-30.5 1.4zm-9.2-2.9zm-93.4-2.1zm-11.7-.9zm-62.9 2.5zm-8.4 3.4zm-1.9-3.5zm-16.8 .9zm-11.3 8.7zm16.2-.4zm22.1-3.3zm6.2 4.1zm3-.5zm3.9 .2zm10.3 0zm32.3 .3zm26.3-3.3zm89.7 .4zm11.5 1.4zm30.1 2.5zm15.3-3.5zm4.4-1.3zm27.4 5.5zm-11.8 2.4zm-7.7-1.3zm-32 4.1zm-11 1.3zm-17.5-1.7zm-4-2.8zm-7.8 3zm-18.8-3.4zm-31.3 .5zm-76.9 6.4zm-17.6-5.3zm-11.7 .2zm-8.3 2.8zm-2-4.6zm-13.8 10.8zm7.7-1.1zm5-.4zm1.9-1.7zm3.6 .2zm3.6 2.9zm16.3-2.7zm18.8 2.1zm6.8 3.1zm3.8-2zm10.4-1.1zm29.8 0zm22.5-.5zm17.1 2.5zm14.7-3.9zm23.8 6.6zm45-6.1zm7.2 3.7zm4.9 2.5zm4.6-.4zm5.9-.8zm-56.5 5.1zm-56.3-.8zm-2.3-2.2zm-18.9 1.7zm-21 3.2zm-7.8-4.5zm-53.9-.5zm32.6 10.1zm15.6-1.1zm64.1 5.9zm1-7.4zm1.6 3.9zm5.9 3.5zm33.7-5.1zm-31.5 7.7zm-9.1 3.3zm-35.3 0zm-.5-3.7zm-3.1-1.7zm-12.3 2.3zm-13.4-1.2zm-13.3 4.6zm-11.3-2.8zm-21.8 2.9zm-20.3-4.2zm23.5 12.5zm3-5.4zm15.5 3.6zm41-.9zm10.3 2.4zm42.6-.4zm-22.7 2.8zm-10 1zm-16.9 .9zm-28.3 .4zm-10 1.7zm232.3 152.1zm.2 3.1zm2-3.8zm5 3.7zm-11.3 6.2zm-9.8 .2zm3.4 3.6z" stroke="#F8766D" stroke-width="4.7" stroke-linecap="round" fill="none"/><path d="M1109.7 362zm7.2 2.9zm21.4 3.7zm-8.1 .9zm17.6 21.6zm-29.6 1.8zm-32.2 5.8zm-6.9-4.2zm-.8 12.5zm40.3-3.1zm9.1-.3zm-53.4 4.8zm20.7 34.4zm9 .6zm12.2 4.2zm22.2-2.5zm12.7 6.2zm-9 3.3zm-12.6-5.3zm-4.8 2.4zm-22.7-.7zm-17.9 2.6zm77.7 9.3zm-6.8 3.4zm-11.2 1.9zm-.3-2.7zm-6.7 1.3zm-2.9-2.2zm-38.7 9.8zm15.6 1.5zm9.4 2.4zm13.6-5.9zm2.1 3.1zm15.4-2.5zm15.5 4.7zm.8-4zm10.3 5.3zm-16.1 3.4zm-23.5 2.2zm-4.8-1.3zm-19.1 2.1zm-2.9 2.1zm-4.9-.7zm-4.8 2.2zm3.2 1.2zm27 4.7zm32.3-5.4z" stroke="#619CFF" stroke-width="4.7" stroke-linecap="round" fill="none"/><path d="M1123.8 259.3zm134.5 46.5zm5.7 49.1zm-105.6 20.9zm-32.7-.6zm-39.1 16.4zm31.8 7.9zm-33.8-3.4zm0-2.9zm-3-.4zm4.9 7.6zm2.9 1.3zm26.1 10zm-30.7 3zm33.1 2.8zm22.5 25zm-19.5 1.2zm-10 2.5zm-26.9-1.1zm5.1 10.1zm4.9-7zm2.8 2.4zm1.5 5zm8.2-4.3zm35.9 .6zm1.4-2.7zm-21.7 12.5zm-8.7 8.5zm13.3-3.9zm4.2-1.5zm.5 5.3zm14.9-4.4zm9.7 2.9zm8.7-.3zm6.6 3zm-.1 5.6zm-26.6 1.9zm-16.8 .5zm-13-6.3zm-13 .8zm2.3 6.7zm1.3 2.7zm18.8 3.1zm11.7-.5zm5.1-2.1zm1.7 2.7zm27.3-6.1zm3.3-.3zm-31.1 12.1zm-13.5-2.5zm-4.6 1.8z" stroke="#619CFF" stroke-width="4.7" stroke-linecap="round" fill="none"/><path d="M1224.9 54.2zm48.1-2zm26.3 6.7zm-9.7-1.9zm-12.1-.6zm-7.3 3.3zm-2.5 .9zm-2-4.1zm-3.4 .7zm-36.7 4.9zm-40.2 4.9zm5.5-2.9zm34.2 4.9zm13 2.9zm.5-4.8zm25.4-1.1zm16.5-.8zm30.4 5.3zm43.6 6.9zm-24.1-5.1zm-54.9 5.7zm-11.9 .3zm-29.1-4.1zm-46.1 2.4zm-6.8-4.4zm-15.1 7.4zm-14.7 6zm8.5 1.8zm15.3-.2zm47.5-4zm9.5 .6zm28 2.5zm35.6 .1zm36.1 0zm3.4-1.6zm20.3-2.7zm.6 6.1zm-1.2 5.7zm-11.2-2.2zm-32.8-.4zm-29.8 2.8zm-25.7 1.5zm-18.3-4.9zm-53.7 2zm-3.5-.1zm-166.6 10.9zm15.8-1.6zm11.7 1.4zm142.3-.3zm42.7-4.6zm23 .8zm76.5 4.1zm.2-4.6zm5 2.4zm5.7 6.9zm-7.7-3zm-99.2 2.4zm-3.8 4zm-4-3.6zm-23.9 .3zm-10.3-1.5zm-137.5-1.9zm-5.7 6.1zm-4.5-5.2zm-6.6 5zm-20.6-4.3zm-19.4 9.2zm38.7 1.4zm19.4-4.5zm124.9 6.5zm25.9-2.5zm.7 2.6zm41.7-2.8zm75.1-.8zm35.7 4.5zm17.6 4zm-3.9-2.9zm-19 2.7zm-26.6 1.6zm-16.1 1.7zm-88.5-4.5zm-10.7-2.3zm-7.2 1.7zm-137 5.8zm-13.6-6.8zm-5.5 1.1zm-31.6 .2zm-4.8 5.8zm-17.9 7zm5.2-6.3zm6.5 5.5zm8.5 .6zm3.4-4.3zm28.4 5.1zm12.2-5.7zm16.3 2.9zm2.7 .2zm139.7-4.6zm8 6.7zm82.7-2.5zm53.1 9.5zm-9.7-3.5zm-20.2 .9zm-4.6-1.3zm-18.3 1.7zm-107.4-.6zm-7.6-2.1zm-132.9 2.1zm-2.5-1.6zm-4.4 1.8zm-3.3 4.1zm-10.5-2zm-24.1 .7zm-36.7-5.2zm-.6 2.5zm-8 .1zm-.2 2.5zm-12.1 7.9zm9.7 1.2zm22.7-5.3zm11.7 2.3zm3.7 1.5zm13.9 .1zm7.2-3.5zm39 3.4zm12.1-3.3zm118 1.8zm1.9 3.3zm5.3-5.1zm110.1-.8zm2.9-.1zm42.5 .3zm-28.4 11.3zm-8.7 2.1zm-6.5-1.8zm-62.2 2.5zm-172.4-4.4zm-.5 3.7zm-20.1-.4zm-3.2 0zm-1.2-6.3zm-15.1 .2zm-10.1 1.2zm-9.7 2.6zm-1.8-2.4zm-14.5-.4zm-6.9 1.9zm-1.9 2.8zm-6.7-3.3zm-16.8 3zm-15.9 4.4zm10.6-.3zm4.6-.5zm20.3 .8zm26 2.4zm.1 2.4zm26.8-3.8zm51.6 3.9zm262.8-1.8zm21.9-5.6zm-299.5 14.6zm-6-.1zm-2.9-5.4zm-18.1-.5zm-10.4 5.6zm-16.8-2.4zm-2.8 1.4zm-9.4-3.3zm-19.6-.7zm-7.6 4.2zm-28.5-5.2zm13.5 8.9zm3.6 0zm33.7-.3zm16 3.1zm29.4-2.7zm1.3 2.9zm267.3-4.1zm14.8 6zm6.9 1.9zm13-4.7zm-26.6 11.6zm-38.5-.8zm-196.7 1.7zm-10.1-6.6zm-39.9 1.2zm-19 5.5zm-15.2-1zm-3.1-.6zm-16.7-4zm-6.7-2.2zm-15.1 3.4zm-15 11.1zm14.3-1.3zm8.2-4.8zm34.7 5.2zm33.3-3.9zm1.2 2.4zm7 3.5zm6.9-3.3zm42.3 1.6zm173.2 1.2zm7-.8zm0-4.2zm8.6 4.1zm9.8-.8zm1.2-5.5zm5.3 7.1zm33.9 7zm-47.2-4.2zm-.8 4.5zm-31.4-5.2zm-1.4 5.1zm-173.7-4.1zm-74.4-.2zm-18.9 5.8zm-5.2-3.8zm-1.6-3.1zm-7.2 2.2zm-6.7 3.2zm-19.7-1.5zm-.3-2.6zm27.8 6.1zm26.5 6.8zm38.3 .3zm198.9-6zm8 6.5zm11.5 0zm11-3.9zm2.5-3.8zm12 .2zm32.4 7.5zm2.6 2.3zm-55.8-2.1zm-42.5 2.7zm-155.6 4.3zm-5.8-2.6zm-64 3zm-.5-4zm17.1 8zm20.4-1.7zm7.7 5.9zm3.6-4.8zm7.6-1.7zm27.2 2.9zm6.9-.8zm8.7-2.5zm6.8-.2zm76 6zm4.2-2.5zm1.5 3.8zm32.1-3.7zm5.3 .1zm8.7 .6zm19.9-1.4zm20 2.7zm24.1-3.8zm6.3 1.4zm5.6 .7zm2.4-1.7zm-21 7.7zm-75.9 1.7zm-29.1 2.5zm-71.7 1.1zm-30.6-2.2zm-25.2 1zm-11.1-2.6zm-1.4 3.5zm-25.4-7.2zm-18 .1zm-1.7 3.1zm-3 6.9zm6.2 .3zm12 4.3zm15.4-2.5zm10.6-3.9zm43.4 7zm78.8-2.3zm9.7-4.3zm5.9 3.1zm86.5 2.6zm3.4-3.9zm.3 5.6zm-.4 4.8zm-3.3-3.5zm-43.7 1.7zm-2.4 2.8zm-16.3 1.6zm-17-7zm-9.8 4.4zm-10.4-2.7zm-3.7 2.6zm-83.2-.9zm-48.9-2.6zm7.7 12.3zm25.4-.6zm3.7-.7zm30.8 1.6zm5.6 1zm35.9-4.4zm45.3 4.2zm34.5-4.4zm16.1 1.6zm7 1.8zm4.9 1.3zm1.2-4zm11.5 4.1zm9.3-3.6zm9.9-.5zm-25.9 8.1zm-6.9-1.4zm-2.7 2.1zm-4.3 1.3zm-29.5-4.3zm-25.4 4.7zm-37.7 1.2zm-64.8-.1zm-40.8 .7zm-2.1-6.9zm-16.9-.6zm-4.1 1zm-1.7 4.7zm8.7 3.4zm3.7 3.4zm35.5-4.1zm24.7 7.4zm23-7.1zm18.5 5zm12.7-3.7zm12-1.1zm7.6 3.7zm14.6-.9zm32.8 2.1zm-20.2 7.2zm-3.9 1.5zm-19.9-4.1zm-25.1 5zm-17.5 .4zm-67.6-.8zm-8.8 1.3zm5.6 0zm.8 2.8zm13.2 2.2zm62.7-2.1zm8.1 3.8zm27.4-2.6zm-25.6 9.1zm-13.4 1.8zm-33.6-3.5zm-6.9-3.5zm-11 .2zm329.5 33.7zm.8 3.4zm16.4 11.1zm-91.8 82.6zm-13 21.7zm-12.9 3.1zm-2 9.9zm13.1-5.1zm3 1.5z" stroke="#F8766D" stroke-width="4.7" stroke-linecap="round" fill="none"/><path d="M1253.3 139.7zm7.7 4.2zm-11.3 4.4zm-53.8 8.8zm230 129.1zm-3.3 6.3zm2.9 .3zm3.4-.3zm12.3-3.3zm-15.3 10.6zm-3.6 2.5zm-28.2-1.9zm-13.8 2.1zm-69.3-3.2zm-10 11.2zm9.6-1.5zm27.4 2.8zm3.5-.8zm72.5-2.8zm8.2-.1zm-15.7 4.2zm-15.8 2.8zm-4.8 4.9zm-6.2-2.8zm-9.5-4.4zm-26.2 4.8zm-14.2-.5zm-12.6-3.8zm-2.7 6.2zm-2.7-2.1zm-.1 2.1zm-1.2-6.7zm-8.3 8.1zm37.9 5.8zm6.9-.1zm2.8-1.5zm11.9-2.8zm31-1.4zm4.1 2.2zm18.3 4.1zm29.5 8.5zm-3.8-2.8zm-10.7 .9zm-28.5-4.8zm-7.4 1zm-6.7 2.4zm-19.4-1zm-9.2 1.3zm-3.9 .2zm-.2-3.4zm-21.9 2.2zm-11.1 .5zm-3.5-2.2zm28.2 11.6zm9.8-2.5zm2.2 2.3zm19.3 1zm11.6-1.9zm5.9 1.1zm43 6.6zm-6.6-1.4zm-12.7 3.2zm-1.8-2zm-7.8 .7zm-4.6 2.4zm-49.1-6.8zm-9.2 2.5zm-.9 2.1zm-5.2-2.3zm-12.3-2.3zm-22.4 8.7zm31.9 .4zm1.1 4.7zm24-5zm24.6 4zm7.6 2.7zm9.3-2zm12.9 .6zm-22.4 8.2zm-4.4-1.9zm-29.5-1.3zm-10.5 3.2zm-19.1-6.5zm-9.3 .8zm-3.6 6.9zm-5.7-2.7zm-7.8-3zm-11.1 11.1zm17.2 .9zm65.4-1.2zm20.3-1.1zm16.7-2.7zm15.2-1.1zm4.4 0zm-23 13.7zm-68.9-.2zm-23.2 1.6zm-15.3-1.5zm-18.6-1.9zm-3.6-1.6zm-32.3 5.5zm-.9 4.3zm23.8 3.1zm53.9-1zm7.6-1.6zm55.3 3.3zm1.4-3zm15.3 .1zm3.1-2.2zm7-1.7zm10.8 1zm-34.6 7.5zm-35.5-1.1zm-27 1.1zm-50.7 5.6zm-5.2-5.9zm-37.7 6.5zm130.1 5.1zm2.3 1.8zm7.6-.7zm26.6-5.6zm-26.8 8.9zm-14.9 0zm-4.7-.4zm-59.9 .4zm-21.3 1zm-55.5 4.3zm-38.9-.3zm-4.6 .9zm131.3 6.5zm-46.8 3.4zm-2.9-.5zm-1.5 3.1zm-38.2 3.9zm-4.8-1.2zm-4.4-2.3zm41.4 8.6zm23.9-.1zm-10.6 4.5zm-4.4 3zm-59 2.7zm-15.3 2.1zm80.6 2zm2.8 2.1zm-64.5 9.4zm-19.9 1.1z" stroke="#00BA38" stroke-width="4.7" stroke-linecap="round" fill="none"/><path d="M1251.9 52zm3.4 1.8zm37-1.2zm-32.9 3.9zm-14 4.2zm-9.5-4.4zm-.7 4.7zm-16.2-3.4zm-19.4 3.9zm-27.7 10.2zm16.2-1.9zm2.2-2.4zm1.9 3.5zm3.3-3.4zm.1 3.8zm6.9-.7zm75 .4zm80.5 4.8zm-9.1-.4zm-11.2-1.2zm-9.6 1.1zm-14.9-1.4zm-18.4 2.6zm-22-2.2zm-13.9 1.1zm-21.2 3.7zm-21.7-1.2zm-10.3 .8zm-35.5-3.5zm-2-2.6zm-18.7 10.2zm69.9 1.7zm15.7-3.3zm3.5 .9zm15.1-.4zm4.8 .3zm24.6 3zm3.6-1.8zm19.3-3.1zm42.6 6.1zm6.9-.8zm9.2 1.2zm-3.6 6.9zm-6.5-3.6zm-21.5 4.8zm-66.9-.8zm-45.7-1.5zm-4.1-.5zm-30-1.4zm-34.2 2.2zm-142.1 10.3zm8.9-3.5zm2.3-3.4zm27.6 7.2zm145.2-2.8zm26.9-4zm21.2-.4zm10.9 6.4zm91.6 .5zm6.2 5.4zm-25.3-2.1zm-3.7 3.5zm-10.7-.2zm-65.8-.9zm-30.9 1.7zm-12.5-1zm-152.7 0zm-5.4-2zm-8.4 1zm-17.7-4.2zm-13.6 1zm-14.9 13.9zm2-6.2zm2.3 6.3zm7-1.7zm9.5-.7zm7.8-2zm2.4 4.3zm49-.2zm103.8-.7zm31.5-5.9zm10.2 3.1zm2.6 2.5zm93.1-3.8zm3.6 4.1zm3.7 .1zm18.1 6.9zm-16 1.6zm-86.5-4.3zm-3.6-1.9zm-16.8 1zm-14.9 2.3zm-3.7-1.3zm-5.3-.9zm-143.8 2.7zm-11.4-3.9zm-1.8 6.9zm-1.2-1.6zm-.6-5.7zm-11.8 6.2zm-.3-3zm-4.1 2.5zm-7.4-5.1zm-2.7 4.9zm-7.3 .9zm-3.6-.6zm-18.6 5zm3.8 1.8zm12.1-3.6zm2.6 2.9zm30.2 1.5zm13.8-1.5zm17.2 .7zm3.6-1.2zm1.5 4.1zm1.7-1.2zm1.5 1.3zm10.7-.3zm117.8-2.1zm7.2-.1zm3.9 .5zm5.9 1.2zm4.7 .8zm99.5-4zm47 .8zm15 5.4zm-62 3.9zm-114.8 .7zm-130.9-6.5zm-11.4 5.7zm-25.7-4.4zm-19.2 5.9zm-6-1.7zm-2.6-.3zm-8.7-3.1zm-13.9 5.9zm22.8 3zm12.3 2.4zm10.2-5zm19.3 .4zm11.6 6.5zm5.2-.7zm259.3-2.5zm32 .5zm30.4 8.8zm-24.8 .7zm-26.7-2.4zm-24.5 1.4zm-116.6-4.7zm-120.4 5.4zm-10.2-1.3zm-25.4 3.3zm-3.6-3.6zm-1.7 1.8zm-9.3 1.8zm-4.6-.5zm-5.8-4.2zm-4.2 .8zm-8.9-1.7zm-9 3.2zm-8.8 2.4zm-7.7-7.4zm-3.9 7zm-11.2-5.6zm20.8 14zm6.4-6.8zm5 4.1zm4-.1zm5.5-4.1zm27.3 2.2zm4.9-2.2zm19.7-.7zm7.6 1.7zm165.1 1.6zm30.9-1.9zm71.3 4.5zm8.4-1zm43.1 4.4zm-23.6-1.5zm-13 4.1zm-2.6-3.2zm-7.5 1.2zm-272.4 5.5zm-17.4-1.5zm-11.8-3.4zm-7-2.2zm-1.7 2.1zm-9.3 4.4zm-11.8-1.5zm-4.4-1.1zm-4.9 1zm-12.7-.7zm-9.2 2.3zm-2.2-4.7zm-10.8 11.2zm21-2.4zm8.1 1.2zm5.8 .4zm7.7-2.9zm.9 5.9zm4.4-.8zm.3-6.4zm4.7 4.9zm19.7-3.4zm16.1-1.1zm4.6 5.1zm260.9 .9zm18.5 .2zm34.8 7.4zm-24-.9zm-4.9-2.9zm-30.6-.9zm-3.8 4.5zm-3.5-3.8zm-247.2 .1zm-14.8-1.7zm-8.6 4.2zm-2.7-1.7zm-20 1.4zm-41 8.2zm12.3-4.7zm9.4 1.1zm9.7 4.2zm2.1-3.4zm7.6-1.1zm1.9 6.2zm13.1-4.1zm5.3-2.9zm13.6-.1zm9.2 7.3zm4.1-7.2zm17.8 6.9zm227-.6zm1-5.1zm6.6 .8zm1.7 8.8zm-3.2 4.8zm-10.3-5.3zm-25.4 3.9zm-8.1 .4zm-162.1-3.1zm-100.2-2.6zm-8.5 2.6zm-22-1.6zm36.6 13.1zm2.1-5.2zm5.8-1.9zm11.4-.1zm5.5 1.1zm4 6.5zm.4-4.4zm12.1-3.1zm44.4 4.5zm157.9 .1zm72.9-3.2zm20 2.7zm-17.7 6.3zm-21.4-1.3zm-67.6 3.3zm-.9-4zm-11.1 2.4zm-120.2 .1zm-8-.8zm-5.6 0zm-16.9 5.6zm-6.3-4.4zm-4.5 3.5zm-8.5-3.5zm-7.6 3.1zm-7.4-6.3zm-26.5 .9zm-.9 3.9zm-9.4 2.3zm.4 3.9zm46.4 1zm36.9-.5zm6.5-1.2zm14.1 4.5zm144 0zm7.1-.3zm68.7 .4zm5.4-4.5zm-31.8 10.7zm-35.9-5.2zm-25.2 7zm-.9-3.9zm-4.5-2.8zm-27 .2zm-1.4 1.9zm-4.4 3.3zm-4.6-.1zm-86-1.9zm-33.9-2.7zm-2 5.1zm-3-1.4zm-28.3-1.1zm-15.5 3.8zm-8.1-.1zm-20.2-.8zm27.9 5.2zm15.9-2zm49.7 .9zm24.1 1.2zm8.6 0zm48.1 3zm5 .7zm46.2 .1zm4.6-7.7zm31.3 .1zm13.5 3.8zm27.4-.7zm-32.6 7.7zm-6 4.6zm-61.4-7zm-31.5 .6zm-6.1 3.8zm-3.6-.7zm-13.3 1.1zm-91.4-4.6zm-32.6 2.9zm-9.9 5.6zm6.2 6zm13.6-3.8zm98.9 .1zm40 .7zm5.9 3.3zm20.5-.2zm36.2-2.9zm12 1.9zm4-3.3zm18.1 .3zm-65.1 5.8zm-4.4 1.5zm-11.6-.2zm-37.8 3.3zm-51 .5zm-3.4-2.7zm-2.9-1.1zm-15.9-2.1zm-48.1 5zm-6.8-2.4zm30.9 5.7zm29.4 6.8zm1.2-5.9zm9.5 4.9zm1.3-2.5zm6.8-.3zm3.5 2.2zm18.2-5.1zm5.6 .5zm45.8 4zm25.4-3.2zm31.5 5.8zm11.1-7.1zm176.1 9.8zm-203.5-2.3zm-78.1 1.8zm-11.9-1.6zm-8.5 5.7zm-21.1 0zm-8.4-2.4zm-15 .9zm-17.3-.9zm-18.9-3.6zm42.8 14.5zm2-3.1zm24.5-.2zm11.3 4.3zm40-.3zm-12.1 6zm-5-2.9zm187.4 135.7zm.2 15.1zm-10 3.6zm-3.7 2.1zm-4.8-2.3zm8.1 9.7zm11.7-1.1z" stroke="#F8766D" stroke-width="4.7" stroke-linecap="round" fill="none"/><path d="M1247.6 158.2zm-30.7 3.5zm17.9 7zm220.3 109.9zm-102.3-.6zm82.2 7.8zm1.8-3zm10.7-2.2zm-19.5 7.6zm-3.4 2.9zm-1.7-1.7zm-13.9 1.4zm-17.3 1.3zm-18.4 .2zm-18.5 2.1zm36.4 3.4zm0 3.8zm-11.1 10zm-6-2zm-20 1.6zm-2.6-1.8zm-22.7-3.7zm-25 5.1zm10.2 4.8zm10.8 3zm24.5 .4zm3.4-4.9zm57.6-.2zm8.8 4.8zm-37 2.7zm-1.3 3zm-9.4-1zm-1.3 3.4zm-4.2-6.6zm-1.3 5.7zm-6.1-1.7zm-51.8 3.5zm-1.5-6.4zm39 9.9zm51.4 .7zm17.6-1.4zm23.5 .2zm-12.4 9.1zm-59.6-1.9zm-3.7 4.5zm-6.4-5.2zm-5.7 1zm-27-1.9zm-19.1 11.7zm3.3 1.8zm4.7 .5zm37.6-4.9zm59.6 5.1zm14.8-3.5zm5.7 6.3zm-25.7 .7zm-3.1-1.2zm-23.9-.1zm-24.5 4.8zm-17-3.9zm-14.3 3.7zm-2.7-.6zm-9.3-2.7zm-6 1.3zm13.6 9.9zm51.1-4.4zm11 2.9zm14.7-1zm7-.4zm34.3 1.9zm-15.4 8zm-11.4 1zm-37.9-3.2zm-40.1 4.5zm-.9-3.8zm-4.5 3.2zm-9.3-1.6zm-38.7 10.5zm24.8-4.8zm29.7 4.6zm9.8-5.2zm10.3 2.4zm2 2.4zm13.9-.2zm3.6-2.4zm8.8 3.4zm19.1-7zm19.2 2.2zm3.5 .1zm-51.9 9.1zm-3.6-.9zm-65.1 4.6zm-107.1 4.3zm28.5-.6zm29.2 .8zm105 2.2zm7.5-1.6zm3.5-.5zm11.6-2.6zm7.1 .9zm28.9 4.1zm2.8-1.2zm-35.1 8.4zm-3.9-1.3zm-6.7 1.1zm-8.4-4.9zm-8.3 2.7zm-44.9 4.2zm-7.4-.1zm-25.5 0zm-23.3-3.3zm-19.5 8.7zm12.8-2.9zm60.8-.1zm8.2 4.2zm13.6 .4zm-29.3 9.9zm-10.5-7.8zm-36.8 7.9zm-57-5.7zm-17.4 .3zm4.5 9.4zm8.4 .5zm48.4-1.1zm-63.9 8.3zm-.1 5.5zm19.7 6.4zm24.8-2.4zm41.7 6.3zm-.2-2.8zm-36.1 1.7zm-13.4 3.2zm-37.4-3.3zm20.5 6.4zm11.7 1z" stroke="#00BA38" stroke-width="4.7" stroke-linecap="round" fill="none"/><path d="M1259.8 295.9zm1.5 8zm-4-3zm-5.8 5.2zm-132.2 46zm-13.2 23.4zm11.5 8.6zm-8.8 2.5zm-26.7 8.3zm.5 2.7zm42.5-.1zm-14.7 8.4zm-19 2zm23.2 .5zm28.7 30.6zm-53-.2zm1.7 5.8zm16-2.8zm36.4 12.5zm-10.9-5.9zm-4.3 4.8zm-2.9-3.6zm-34.9 12.6zm22.6 1.3zm19.8-3.7zm9.7 1.9zm32.5 10zm-7.2 .2zm-4-.6zm-14.1-.3zm-1.4-2.1zm-30.3 2.7zm-23.1-2.1zm-2.1-3zm38 9.8zm11.8-1.7zm9 4.2zm9.3 7.3zm-14.9 1.3zm-8.3-.7zm-16.4-3.6zm-14.2 1zm29.3 9z" stroke="#619CFF" stroke-width="4.7" stroke-linecap="round" fill="none"/><path d="M1260.6 52.9zm21.2 2.2zm36.2 8.1zm-41.2-.5zm-36.1-2.6zm-11.8-.1zm24.4 8.6zm32.1-.4zm16.6-2.8zm19.5 3.4zm15.2-.5zm9.5 3.9zm-26.1 1.1zm-33.2 1.3zm-30.4-2.5zm-6.2 1.3zm-3.1 6.1zm-1.3-4.4zm-26.6-2.7zm-18.9 3.1zm-22.9 .6zm-18.2 1.9zm12.5 2.2zm6.3 3.5zm69.8 1.9zm64.2 1.2zm8.7-1.7zm41-4.1zm-11 7.4zm-77.2-.1zm-22 4.5zm-19.3-4.5zm-19.3 5.3zm-20.7-2.6zm-13.3-2.8zm-12.3 5.3zm-2.4-4zm-2.1 4.5zm-4.6-3.6zm-134.7 8.6zm3.5 4.7zm151.9-5.1zm63.6 3.9zm26.1-2.6zm3.9 1.3zm65.6-1.3zm19.4-.7zm7.3 1.2zm-1 9.2zm-6.4 .9zm-16.2-3.3zm-22.3-1.2zm-12.8 5.9zm-46.1-6.8zm-1.1 3.6zm-16.9-2.3zm-50.3 .9zm-3.7-3.2zm-7.4 6.1zm-124.4-5.7zm-2.6 6zm-10.5-1.6zm-11.6-3.9zm-45.3 14.5zm34.4-3.7zm4.5 2.1zm5-2.2zm8.2 1.9zm16-2.5zm165-1.8zm22.5 5zm73.2-4.5zm17.1 5.2zm2.8-1.9zm8.2 .3zm2-3zm18.1-.7zm4.7 1zm3.9 3.9zm-59.9 7.3zm-8.5-4.4zm-81.8 4.3zm-28.9-.3zm-14.2 2.2zm-11.2-4.8zm-106.7 3.7zm-6.4-5.3zm-3.3 3.2zm-14.2 3zm-3.1-2zm-4.1-2.3zm-4.9-1.9zm-3.1 2.2zm-.7-2.1zm-8.3 6.2zm-3.2-2zm-4.7-4zm-17.4 .7zm-9.8 12.6zm10.1 .7zm16.1-4zm18.3-2.8zm8.2 .4zm.4 4.9zm190.2-2.1zm95.3 3.3zm12.3-4.5zm16.8 2.6zm17.3 0zm-15.3 10.4zm-3.8-2.7zm-5.8-2.8zm-8.4-1.8zm-15.8-.4zm-269.1 3zm-5.2 .8zm-11.6 .2zm-47.5-3.3zm-19.3 11.3zm8.3 3.1zm9.9-3.8zm6 4.4zm20-5.3zm1-1.6zm4.3 4.9zm5.8-5.8zm3.8 5.6zm.2-5.2zm2.5 5zm58.4 .6zm5.8 1.1zm110.1-2.6zm133.9-1.7zm13.4 3.8zm20.2-5.6zm.9 4.4zm14.1-4.3zm-23.1 11.3zm-51.9-2.8zm-223.3 1.7zm-9.3 .1zm-6.1-.4zm-9.7-1zm-.2 2.8zm-11.1 2.5zm-2-1.7zm-.7-5.3zm-4.3 6.1zm-3.1-5.1zm-8.9 6.5zm-21.7-7.1zm-19.6 5.2zm-1.5 1.2zm-25.2-2.7zm31.9 10zm4.6 1.2zm15.5-1.5zm2.1-5zm7.6 .9zm9.5 1.4zm14.9 .5zm10.9-.4zm5.2-2.7zm12 2.7zm170.7 2.6zm94.7-1.7zm.8-4zm4.8 3.1zm8.8 .4zm2.1 7.7zm-10 .9zm-13.4 .8zm-9.4-2.8zm-2.9 1.2zm-15.1 3.6zm-220.8 .3zm-39.1-4.3zm-8.9-.8zm-.9 3.7zm-3.6-5.7zm-6.8 .8zm-.8 1.9zm-6.1-.5zm-48.9-2.1zm-5.8 6.6zm-11.4 0zm24.6 7.5zm10.5-2.5zm5.6-3.9zm1.6 3.4zm1.1-2.5zm5.4-1.1zm28.3 3.8zm4.8 .3zm7.6-.5zm15.2 3zm15.6-2.8zm3.7 1.2zm16.4 1.6zm230.4-1.6zm15.4-3zm22.6 5.4zm1.4-4.8zm-10 9.5zm-31.8-3zm-3.8 1zm-6.9-.4zm-273.7-1.8zm-9.8 2zm-2.7 3.9zm-7.9-.3zm-19.9-1.8zm-10.4-.4zm-15.4-2.3zm-7.3 5.2zm-10.4-4.5zm13.6 11.3zm2.5-2.5zm9 3.9zm20.5-.1zm281.5-1.6zm14.1-3.3zm30.2 5.3zm24.7-.6zm-10 9.6zm-11.3-5.5zm-56.5 1.7zm-.8 3.3zm-12.1-3.3zm-3.1 2.2zm-150 1.8zm-45.1-2.2zm-33.8-4.6zm-10.5 3.8zm-45.7-1.5zm26.1 7.1zm52.9-.3zm32.8-.4zm157.3 4.9zm53.2 .5zm54.2-4.4zm-52.6 7.6zm-11.8-2.4zm-19 2.5zm-.7 2.6zm-14-.6zm-141.1-2.4zm-23.6 4.8zm-23-1.2zm-40.5-4.5zm-12.1 14.2zm9.7 .3zm14.9-2.3zm37.7-3zm12.9 3.8zm6.7-6.1zm151.5 5zm10.4-5.1zm44.8 5.5zm20.6-2.1zm-52.3 6.8zm-38.2 3.1zm-5.5-.7zm-12 .6zm-21.6-2.1zm-11.1 .6zm-8.8 4.1zm-72.8-2.2zm-8-4.6zm-19.1 .4zm-14.8 3.5zm-2.2-4.1zm-4.6 3.6zm-5.5 3.4zm-9.1-4.5zm-21.2 2.5zm-6.4 1.3zm22.2 3.5zm9 3.5zm18.8-5.5zm41.2 1.6zm.3 4.5zm3.1-3zm95.5-.7zm6.7 12.2zm-18.9-1.4zm-36.4 2.1zm-7.3-.9zm-26.5-3.7zm-1.2 3zm-13.6-3.3zm-30-2.6zm-6.1 4.8zm-5-3.7zm-16.2-1.5zm-10 2.9zm-13.5 2.9zm-3.5 2.4zm.7 2.7zm32.3 4.7zm7.2-4.3zm3.1 4.5zm21.5-2.4zm19.1-.9zm20.3-3.1zm5.8 .2zm10.9-1.5zm1.4 7.6zm.1-3.1zm11.2-.3zm4.4 1zm30.2-4zm8.8 1.3zm29.9 3.6zm14.6-.1zm21.2 1.3zm8 2.9zm-3.5-2.3zm-9.2 6.1zm-7.8-4.1zm-15.3-.8zm-23.1 .7zm-9.1 3.9zm-17.3 .6zm-41.6-.7zm-9.8 2zm-17.4-6.5zm-21.7 3.9zm-2.6-4.1zm-6 4.6zm-.7-3.5zm-7.6 5.8zm-8.4-8zm-11.6 5.1zm34.2 8zm9.9 1.5zm45.2-.9zm11.1-2.3zm50.2-2.3zm44.4-1zm-15.2 8.1zm-43.5 2.5zm-40.6 1.8zm-4.4-.6zm-38.3-2.6zm-1.4 3.5zm-14.1-2.3zm-6-2.4zm-29.3 6.1zm25.4 7.1zm25.2-4.9zm11.2 5zm45 2.1zm13.4-1.1zm1.4-3.8zm112.9 1.8zm-156.7 8.6zm-26.2-3.3zm208.5 158.3zm3.6-7zm8 8.6zm-4.4 6.3z" stroke="#F8766D" stroke-width="4.7" stroke-linecap="round" fill="none"/><path d="M1213.3 151.5zm6.4-3.5zm14.7 11.4zm-10.1-2.5zm-22.1-.8zm157.2 123.4zm90.5 4.8zm-12 3.1zm-80.1-5.5zm77.3 9.8zm3.8 .1zm-133 11.6zm-14.1-.9zm16.3 3.9zm23.4 1.1zm12.7 .3zm1-3.1zm4.4 2.4zm47.3-.4zm13.5 11.4zm-27.8 .6zm-16.5-1.3zm-7.5 0zm-11.6-5.1zm-27.5 .3zm-14.8 12.9zm22.7-1zm34.2 .2zm8.9-4.7zm9.3 .9zm38.9 6.9zm1.1-6zm11.7 3.2zm9.5 5zm-13.6 1.2zm-43.3 2.8zm-1.1-3.9zm-11.9 4.3zm-2.4 0zm-11.2 .9zm-48.6 5.7zm3.9-.6zm21.6-.1zm51.1-1.7zm37.3 3.9zm3.9 8zm-42.7-2zm-20.6-1.9zm-8.2 .3zm-3.9-1.7zm-27.2 3.7zm-21.6 3zm52.3 3.8zm9.4 .3zm5.4 1.6zm6.1 .2zm37.9 1.2zm21.1-6.6zm-29.4 8.3zm-25.8 5zm-7.6-1.3zm-2.8 2.4zm-10.1-.6zm-19.1 1.1zm-53.4-2.6zm3 8zm22.5-3.9zm9.5 2.4zm2.4-1.5zm41.3-.6zm19.2 3.4zm3 0zm1.8 2.9zm37-6.7zm2.1 14.4zm-6-1.9zm-15.5 2.1zm-14.2 .5zm-5.5-5.6zm-8.6 1.1zm-3.6-.6zm-2.7 4.3zm-26.3-3.5zm-9.8-.9zm-3.6 2.1zm-9 2zm-39.4 1.2zm-39.8 .8zm23.6 4.2zm61 1.5zm9.3-5.4zm33 .6zm24.2 1.9zm11.6 2.4zm6.2-2zm9.1-2.3zm.7 2.3zm-2.8 7.6zm-10.6 4zm-14.4-1.9zm-8.2-2.7zm-10 .9zm-8.3 3zm-105.5-2.5zm-20.6-4.2zm-14 1.4zm-44.4 2.1zm115.8 11.7zm20.5-2.1zm5-3.6zm25.2-.3zm19.4 1.5zm12.9-1.1zm13-.5zm9.3-.1zm-82 7.9zm-3.4-.4zm-22 3zm-48.4 .8zm-3.3 3.4zm-15-6.6zm-40.5 3.7zm-11.9-3.7zm4.2 12.4zm36.5-.4zm27.5-2.3zm49.5 1.9zm4.9-.5zm16.8-1.7zm-19.8 6.4zm-48.7 3.1zm-22 2.4zm-1.1-2.5zm-2.9 3.4zm-30.8 .5zm-36.1 5.4zm1.9-4zm39.3 4.6zm77.3 7.5zm-7.5-1.5zm-14-1.9zm-2.5-.1zm-10.9 3.5zm-9.6-2.9zm-6.5-.9zm-33 2.2zm-1.9-3.3zm-3.9 7.1zm-17.9-1zm-1.9-5zm15.5 14.2zm13.8-2.3zm18.5-3.4zm-21 8.3z" stroke="#00BA38" stroke-width="4.7" stroke-linecap="round" fill="none"/><path d="M1260 292.2zm.5 5.5zm-.4 3.6zm-22.9 3.4zm3.2 2.3zm.7-2.8zm13.5 1.2zm-1.1 24.9zm-141.9 15.4zm-3.2 12.8zm.1 23zm12.9 .5zm-.6 5.9zm-37.2 1.8zm7.9 4zm27.7 2.4zm10.2-2.5zm-36.1 8.3zm-12.7 4.6zm2.4 6.2zm10-3zm25.2-.7zm7.7 .5zm21.9 41.7zm-14.4 3zm-1.6-3.3zm-14.4-1.1zm-10.6-1.5zm-18.7 4.4zm10.6 16.3zm11.5-4.4zm2.2 2.4zm22.3 10.9zm-9.4-4.8zm-9.3 6.7zm-17.6-7zm-3.5 7.2zm24 7.8zm18-7.2zm17.2 9.2zm-39.7-.6z" stroke="#619CFF" stroke-width="4.7" stroke-linecap="round" fill="none"/><text x="1095" y="185.7" font-size="24.6" text-anchor="start" fill="#000">Acinar</text><text x="1301.5" y="378" font-size="24.6" text-anchor="start" fill="#000">Cancer</text><text x="1057.5" y="463" font-size="24.6" text-anchor="start" fill="#000">Islet/Ductal</text></g>
<g id="panelC"><text x="0.2" y="594.8" font-size="45.5" text-anchor="start" fill="#000">C</text><g transform="scale(.5)"><path d="M457 1259zm11 1zm-16 7zm-6 5zm-20 1zm-22-6zm-52 19zm3-5zm12 4zm16-5zm11 1zm13 5zm11 1zm9-12zm7 11zm34-12zm8 4zm2 4zm21-8zm10 11zm12 1zm12 9zm-2-1zm-19 2zm-4-3zm-7 5zm-13-8zm-27 6zm-9 2zm-2-3zm-11 7zm-2-10zm-7 2zm-10 0zm-14-3zm-6 4zm-15-1zm-30-5zm-88 9zm-18-4zm-6 9zm2-1zm4 13zm2-3zm2-9zm17 7zm2 2zm107-9zm15 8zm94-1zm18 3zm4-5zm2-4zm7 3zm3 4zm2 1zm25 4zm0-3zm-4 11zm0-5zm-15 2zm-43-2zm-204 4zm-1-2zm-6 2zm-5 2zm-11-1zm-5-2zm-8-1zm0 9zm-9-4zm0-4zm-3 1zm-5 3zm-2-9zm-5 3zm-6-4zm5 18zm2 0zm1 3zm5 7zm22-8zm3 0zm7-4zm1 7zm8 2zm2-10zm3 4zm1 3zm3-8zm2 3zm236 11zm9-2zm7-7zm-6 21zm-9-8zm-7-2zm-8 0zm-209-1zm-17 1zm-18 4zm-4 6zm-9 0zm-1-8zm-13 10zm-3 0zm-2-4zm-2-3zm-2-2zm-4 19zm3-1zm7 3zm8 0zm14-11zm0 8zm2-7zm6 5zm8 5zm4-9zm19 1zm203-3zm4 1zm5 3zm16 10zm-12 12zm-10-1zm-5-8zm-22 8zm-7-10zm-24 5zm-145-1zm-41 3zm-2-7zm-7 9zm-13-1zm0-2zm-5-5zm-9 0zm7 12zm2 9zm175-2zm62 2zm21 2zm7-12zm-20 27zm-18-7zm-4 1zm-1 3zm-41 2zm-4-4zm0 2zm-2-3zm-3-2zm-7 8zm-1-13zm-62 10zm-4-1zm-2-7zm-41 4zm-2-2zm-4 5zm-12-1zm-13 0zm-28 1zm23 11zm13-5zm6 2zm12 6zm1-6zm7-2zm0 12zm19-13zm7 13zm2-2zm6 2zm50-10zm41 5zm9 5zm13-9zm36 0zm-51 13zm-53 0zm-7 0zm-10-2zm-6 9zm-12 4zm-10-6zm-14-5zm-17 6zm-3 5zm-42-13zm27 14zm6 0zm6 3zm16-1zm14 4zm50-4zm10-1z" stroke="#F25B47" stroke-width="6.7" stroke-linecap="round" fill="none"/><path d="M452 1259zm42 14zm-75-3zm-4-1zm-3 2zm-7-2zm-45 16zm40-3zm23 1zm62-6zm5 11zm27-13zm9 24zm-29 0zm-16-9zm-33 2zm-38 6zm-137 3zm-9 7zm227 2zm9 3zm29 15zm-13-9zm-6 2zm-223-4zm-4 11zm-81 4zm20 5zm12-6zm1 1zm29 12zm1-7zm229-1zm18 0zm35 6zm0-8zm-4 14zm-266 8zm-71 0zm-3 10zm15-5zm279 5zm5 5zm22 0zm-86 13zm-209 0zm-8 4zm4 6zm65-1zm124-2zm2 7zm14-9zm57 12zm-14 12zm0-7zm-37 4zm-124-5zm-10 0zm-45 12zm23 8zm22-5zm51 4zm3-8zm30 10zm22-1zm-25 5zm-13 2zm-27 7zm-1-2zm-7 12zm5 4zm37-7zm112 5zm80 70zm-255 51z" stroke="#CDA8A1" stroke-width="6.7" stroke-linecap="round" fill="none"/><path d="M381 1274zm17-4zm9-4zm8 7zm16-12zm3 3zm3-3zm33 8zm25-1zm38 18zm-26-11zm-4 1zm-6 1zm-51 4zm-24 0zm-2-6zm-5 6zm-21-4zm-7-1zm-15 11zm-141 11zm23-2zm15-1zm96 4zm3-8zm3 5zm41 4zm10-12zm1 9zm5 2zm0-8zm23-1zm6 10zm57 0zm3-6zm21-3zm-41 24zm-104-13zm-6 9zm-5-9zm-99 9zm-4 0zm-1 3zm-1-12zm-1 4zm-3-3zm-6 1zm-16 3zm-8 4zm-15 4zm-6-1zm-19 13zm16-9zm7 5zm1-4zm1 2zm7 0zm5 2zm28 2zm2-7zm5 1zm17 0zm103 2zm2 5zm23-4zm70 0zm19 7zm11-3zm4-3zm2-2zm2-3zm2 8zm4-9zm9 8zm3 4zm2-6zm1 5zm1-2zm4 10zm-3-1zm-7-2zm-19 2zm-21 3zm-3-2zm-1-4zm-3 1zm-7 2zm-192-3zm-11 5zm-5 5zm-7-9zm-7 5zm-4-4zm-3 0zm-2 10zm-15-5zm-2 3zm0-9zm-3 7zm-1-6zm-1 6zm0-8zm-3 2zm-7 3zm-1 1zm-7-1zm-3 6zm-15-4zm-12 9zm34-2zm11-1zm6 0zm2 3zm7 7zm17-7zm21 0zm7 10zm13-13zm178 5zm3-2zm0 5zm8-7zm26 4zm11-4zm15 1zm-24 15zm-6 6zm-10-8zm-198 2zm-40 5zm-8-5zm-16-2zm-4 8zm-9-6zm-11-1zm-13 8zm-5 1zm-6-2zm3 11zm5-1zm10 4zm13-6zm5-4zm10 9zm19-3zm38 0zm164 4zm6 1zm7-2zm16 3zm3-5zm1 3zm1 9zm-1 3zm-10-4zm-3 10zm-5-10zm-1 2zm-4 6zm-10-5zm-8-1zm-12-5zm-16 12zm-10-5zm-8-2zm-103 0zm-36 2zm-11-6zm-5 9zm-5-8zm-6 3zm-3 5zm-6-7zm-4 12zm2 8zm14-6zm4 6zm3-9zm5 8zm9 0zm23 3zm26-12zm7 13zm7-3zm24 2zm24-11zm2 10zm20 2zm3-1zm2-10zm1 12zm3-6zm14-1zm13-3zm13 7zm5-10zm10 11zm16-7zm-16 10zm-3 0zm-3 7zm-5 0zm-4 1zm-19-9zm-9 1zm-3 2zm-4 2zm-21-1zm-6 2zm-5-5zm-3 7zm-5 3zm-8-2zm-6 0zm-33-9zm-22 12zm-1-8zm-1-2zm-5 3zm-4 6zm-3-6zm-7-2zm-5 1zm-14-2zm-7 1zm-5-1zm-6 0zm-19-1zm31 18zm0 3zm3 0zm14 4zm54-8zm4-4zm4 7zm17 1zm15-7zm4 10zm4 1zm8-11zm6 9zm26-5zm91 22zm-160-12zm-2 5zm-5-5zm-12 6zm-7-1zm-23 3zm-22-8zm227 30zm95 6zm-73 17zm-40 77zm11-3zm1 4zm4-2zm1-2z" stroke="#DD9283" stroke-width="6.7" stroke-linecap="round" fill="none"/><path d="M403 1298z" stroke="#FF1A0A" stroke-width="6.7" stroke-linecap="round" fill="none"/><path d="M395 1271zm47-7zm19 7zm24 3zm13-3zm5-2zm-28 17zm-58-10zm-19 8zm-34 1zm-7-3zm-7 5zm-122 14zm14-4zm151-2zm4-2zm6-3zm13 7zm2-5zm16 4zm3-1zm9 4zm20-2zm29-4zm1 8zm13-6zm19 6zm5 1zm0 11zm-11-8zm-18-1zm-1 7zm-58-7zm-1 4zm-3 0zm0-4zm-5 8zm-6 1zm-2-4zm-13-4zm-6 6zm-3 3zm-1-6zm-10 5zm-1-8zm-3 7zm-1-7zm-8 10zm-2-8zm-4-2zm-1 3zm0 8zm-10-12zm-82 10zm-32-9zm-14-2zm-4 5zm-7 6zm-2-8zm-4 9zm-6 0zm-12 15zm3-2zm3 1zm4-5zm0-8zm9 3zm2 6zm27-4zm0 2zm12 3zm0-3zm5 4zm22-10zm93 0zm5 1zm3 3zm2 7zm6 1zm1-10zm1 8zm2-6zm1-3zm6 4zm4-5zm32 13zm6-6zm11-8zm65 9zm-6 14zm-5 1zm-9-4zm0-5zm-57 2zm-3-2zm0 4zm-6 6zm-12-4zm-8 2zm-5 3zm-14-10zm-9-1zm-10 1zm-98 8zm-2-9zm-10 3zm-7 5zm-12-6zm-5 1zm-11 4zm-4 3zm-13-1zm-2 2zm-7-10zm-1 5zm-1-2zm-1 6zm-1-9zm-3 7zm-1-7zm0 10zm0-8zm-1 6zm-3-6zm0 6zm-1-7zm-3 9zm-4-11zm-1 5zm-1 18zm1 2zm7-3zm4-5zm3 1zm3 8zm1-5zm1 4zm1-10zm2 5zm0 6zm2-5zm0-4zm5-4zm30 4zm2 8zm5-11zm1 8zm0 2zm2 2zm0-11zm31 2zm103-4zm15 0zm3 4zm18-1zm68 10zm2-8zm3 6zm39-10zm-18 14zm-6-1zm-5 13zm-3-11zm-4 8zm-16-3zm-19 5zm-197-4zm-11 6zm0-11zm-4-1zm-4 4zm-1 4zm-5 0zm-33-6zm-4 4zm-1-6zm-9 2zm-4-1zm-2 6zm-6-6zm-3 10zm6 6zm1-3zm1 5zm0-6zm7 1zm1 7zm7-6zm1 3zm0 7zm1-5zm0-5zm4 9zm5-6zm2-1zm1-2zm1 2zm20 0zm13 5zm1-9zm177 8zm15 2zm5 0zm13-7zm59-3zm-35 24zm-11-4zm-1 7zm-3 0zm-7 0zm-3-12zm-14 8zm-10 0zm-40 3zm-96 0zm-3-8zm-4 9zm-11-4zm-27-7zm-28 7zm-10 18zm2-5zm8-8zm8 1zm19 1zm37 11zm3-5zm69-6zm61 0zm16 0zm12 8zm3-2zm13 1zm-30 16zm-37-8zm-2 4zm-64-4zm0 6zm-1-4zm-6-1zm-14 5zm-11-5zm-47 7zm-13-7zm-24-3zm31 20zm7-4zm40 5zm11 5zm1-12zm35 8zm8 2zm11-5zm36-4zm14-1zm97 12zm12-6zm10 5zm54-1zm8-4zm1 3zm1-2zm2 5zm2-4zm2-1zm1-3zm2 3zm-23 16zm-5 1zm-1-5zm-9 0zm-7 1zm-18-2zm0 8zm-3-8zm-7 1zm-8-4zm-10 1zm-3 4zm-3-1zm-3 6zm-3-1zm-5-2zm-5-1zm-5 4zm-9 1zm-2-1zm-33-8zm-10 7zm-1 1zm-2-9zm0 10zm-2-10zm-52-3zm-15-1zm-12 6zm-1-3zm-48 4zm175 13zm3 3zm9-7zm2 1zm0 9zm4 1zm2-11zm0 4zm4-4zm20 5zm4-2zm2 5zm3-10zm12 4zm9 0zm2 5zm5-3zm1 2zm8 1zm4 5zm11-4zm4 4zm0-2zm14 13zm-12-2zm-6-7zm-6 4zm0 7zm-3-6zm0 4zm-4-2zm-1-3zm-2 1zm0 4zm-5-3zm-1-7zm-4 12zm0-2zm-1-7zm-1 5zm-12 1zm-2 2zm-9-6zm-4 3zm-5-2zm-3 6zm-10-9zm-6 5zm0-8zm-1 6zm-3-2zm-1-4zm-2 11zm0-10zm-17 0zm-161 11zm-10 9zm4 2zm14-1zm138-4zm16 7zm4-9zm4 5zm1-3zm3 8zm0-5zm8-6zm1 3zm1-2zm0 5zm3-7zm2 10zm1-8zm1-3zm3 7zm3-5zm4 7zm4-2zm4-6zm0 7zm2-5zm1 2zm2 6zm2 0zm3 3zm2-4zm1-10zm3 10zm3-10zm2 12zm4-10zm8 8zm3 0zm7-2zm0 3zm3-11zm5 8zm4-3zm1 6zm4-6zm0 9zm4-10zm2-3zm-1 21zm-4-6zm-1 5zm-1 5zm-2-10zm-1 10zm-2-3zm-6-9zm-2 13zm-1-2zm-4-5zm-1-3zm-1 5zm-3 0zm-1 1zm-2-6zm-2-2zm-2 10zm-4-7zm-4 9zm-1-9zm-2-4zm-2 11zm-5 1zm-2-1zm-3-8zm0 5zm-2-8zm-8 3zm0 5zm0 5zm-2-12zm-1 6zm-1 2zm-1-6zm-1 3zm-1 3zm-2 1zm-3-10zm-1 2zm-2-2zm-9 13zm-4-2zm-16-2zm-4 2zm-1 3zm-1-2zm-3 0zm-6-1zm-124-6zm-7 1zm-3 1zm-9-5zm-4 8zm-7-3zm-21 16zm0 2zm5-1zm13-2zm12 1zm1-2zm2 3zm3 4zm2-6zm2 3zm19-3zm25-5zm15 8zm2 1zm0 2zm10-4zm18 3zm21-2zm7-8zm3 10zm0-9zm3 2zm9 7zm16 1zm0-2zm3 0zm3-11zm6 1zm4-2zm6 4zm1 2zm1-5zm3 9zm1-6zm11 10zm1-4zm0-8zm4 8zm1-3zm2-6zm4 4zm3 5zm2-3zm2-3zm1-2zm2 5zm0 7zm3-1zm5-3zm0-5zm2 8zm0-5zm1-6zm1 2zm3-3zm2 4zm0 3zm0 5zm10-8zm1 5zm6 1zm2-1zm3 0zm1-9zm1 6zm4-5zm-22 15zm-11-3zm-5 8zm-4-7zm-1 3zm-1 6zm-1-2zm-4 2zm-1-8zm-4 3zm-3-2zm0 3zm-5 0zm-22 7zm-6 0zm-2-7zm-3 1zm-1-5zm-1 9zm-1-6zm-1 9zm-10-7zm-11-4zm-1 3zm0 4zm-2-5zm-5 7zm-8 1zm-17-3zm-2 2zm-1-2zm0-5zm-28 7zm-7-10zm-2 10zm-3-9zm-3 2zm-2-3zm-1 9zm0-5zm-2 2zm-2 4zm-46-8zm-8 0zm-23 6zm-1-9zm0 8zm-4-9zm-2 6zm0-5zm-1 4zm-1 7zm-2-5zm-4 1zm8 6zm6 13zm21-8zm2 3zm4-4zm0-3zm44 0zm1 12zm2-2zm1 2zm1-13zm6 2zm2-1zm4 3zm6 3zm5-5zm6 11zm3-12zm8 0zm5 10zm2-4zm2 4zm4-6zm1-5zm6 13zm8-9zm24-1zm18-1zm3-1zm7 0zm5 0zm-5 26zm-1 0zm-12-1zm-22-8zm-5 0zm-1 1zm-6 5zm-5-9zm-3 3zm-1-4zm-4 8zm-1-3zm-3 6zm-1-8zm-16 5zm-2-6zm-6 1zm-6 5zm0-2zm-15-2zm-7-1zm-3-1zm0 3zm-2 5zm-15-4zm-8 7zm-3-3zm-7-2zm-5-3zm-3 6zm-1-6zm-3 8zm-1-2zm-6-1zm-5 2zm-6-5zm-1 5zm-1-6zm-3 2zm-2-2zm-2-5zm-2 8zm-2 1zm-4 4zm6 5zm9-3zm0 9zm2-2zm3-1zm1-8zm1 12zm2-8zm2 6zm0-4zm3 2zm4-7zm1 9zm7-7zm2 6zm2 2zm3 1zm2-11zm1 9zm0 2zm7-1zm1-9zm0 11zm2-3zm3-3zm2 1zm11-5zm1 3zm2-4zm2 3zm3 5zm0-6zm7 2zm5-1zm1-1zm10-1zm4 1zm76 0zm1 3zm16-5zm-121 15zm-1 3zm-1-2zm-1-2zm-1 8zm-3-9zm-3 1zm-1 9zm-2-9zm-2 12zm-2-12zm-1 7zm0-4zm-2 4zm-3-8zm-1 7zm-2-5zm0-2zm-2 4zm0 4zm-2-1zm-7-6zm-1 8zm-2-7zm-2 6zm-3 1zm-3 4zm-2 0zm-3-9zm-5 6zm-2-5zm0 6zm-1-3zm0-5zm-2 2zm-1 6zm-1-12zm-4 14zm-2-1zm-2-8zm-1-3zm-3-1zm11 14zm19 3zm4 0z" stroke="#BEBEBE" stroke-width="6.7" stroke-linecap="round" fill="none"/><path d="M514 1280zm41 54zm-134 75z" stroke="#F93B29" stroke-width="6.7" stroke-linecap="round" fill="none"/><path d="M397 1273zm38 1zm4-2zm16-11zm50 12zm4 1zm15 10zm-8 0zm-12-6zm-4 4zm-3 2zm-23-1zm-10-5zm-27 5zm-13-6zm-34 1zm-10-1zm-10-3zm-1 5zm-7 7zm-4-6zm-120 17zm139 4zm20-5zm2-6zm7 6zm1-7zm11 6zm9 1zm6-7zm14 7zm13-3zm2-2zm7-2zm19 7zm16-2zm32 6zm5 6zm-1 5zm-2 4zm-23-10zm0 4zm-8-6zm-2 6zm-2-2zm-15 9zm-48-10zm-3 1zm-20 0zm-13 3zm-127-6zm-2 8zm-5-10zm-1 4zm-4 9zm-1-9zm-3 3zm-5 2zm-4-9zm-10 9zm-1 3zm-10-4zm-1-3zm-27 17zm2 1zm12-7zm2 3zm6 0zm4-2zm20 8zm2-1zm1-5zm12-3zm4 10zm4 0zm7-6zm1-6zm5 6zm1-4zm3 2zm104-1zm11 2zm19-4zm68 3zm7-1zm2 3zm18 0zm22 1zm15 15zm-12-7zm-11 7zm-2-3zm-4-3zm-21 2zm-3 5zm-4 0zm-108-8zm-101 1zm-28 9zm-8-6zm-4 1zm-6 2zm-13-8zm-5 12zm-1-10zm-2 11zm-1-7zm-9 3zm-4-2zm-5 17zm12-4zm1-5zm1 5zm7 5zm9-5zm5-4zm24 6zm0-3zm4 2zm1-6zm13 10zm208-5zm20-5zm3 7zm18-2zm4 2zm4 18zm-15-1zm-3-5zm-2 8zm-3-10zm-10 9zm-14-2zm-12-3zm-178-6zm-17 2zm-12-3zm-5 8zm-10-8zm-7 6zm-5-6zm-9 11zm-3 0zm-2-2zm-7-8zm-33-1zm14 17zm6 6zm31-8zm6 4zm2 2zm13 4zm4-6zm19 4zm13-9zm150 9zm20-1zm39-8zm14 3zm4 1zm-30 12zm-2-1zm-5 6zm-28-2zm-2-3zm0 6zm-5-6zm-9 4zm-39-2zm-92 0zm-7-3zm-5 8zm-1-6zm-19 4zm-4 0zm-6-4zm-6 6zm-6 3zm-3 0zm-15-8zm-4-5zm-3 1zm-11 11zm13 10zm10-7zm9 5zm10 7zm1-4zm9 4zm12-8zm3 4zm6 2zm28-5zm6 2zm35-2zm17-2zm12 9zm4-11zm3-2zm5 4zm2 5zm23 0zm6 3zm5 0zm5-7zm8-1zm16-2zm5 11zm-4 3zm-3 1zm-28 1zm-6 0zm-11 2zm-4 6zm-8 0zm-9-3zm-8 2zm-12-7zm-13 3zm-6 4zm-8-6zm-10 6zm-5-7zm-12 7zm-1 2zm-20 1zm-8-12zm-1 5zm-9-4zm-13 4zm-26 2zm-3 4zm-9-8zm17 14zm8 5zm5-3zm1-6zm16 4zm3 0zm18 7zm9-2zm13-1zm44 2zm1-7zm5 3zm2 2zm0-8zm-5 13zm-7 6zm-19 3zm-9-5zm-7 1zm-2-3zm-13 0zm-25-1zm-16 2zm222 83zm58 1zm-63 14zm-8 25zm0-5zm9 12zm-2 0zm-3 2zm-149 6z" stroke="#EC7C66" stroke-width="6.7" stroke-linecap="round" fill="none"/><path d="M390 1272zm0-2zm8-2zm25-2zm20 7zm9-2zm6-5zm2-6zm7 3zm4 10zm5-12zm6 5zm3 5zm53 16zm-7-4zm-7 3zm-9-9zm-2 8zm-13-8zm-7 10zm-1-13zm-30 6zm-14 3zm-7-6zm-2 9zm-2-8zm-6 5zm-1-8zm-16 10zm-2-5zm-24-1zm-33 5zm-118 15zm25 2zm8-1zm87-9zm23-3zm1 3zm6 9zm28-9zm10-3zm8 14zm1-8zm65 8zm9-1zm30-4zm7 18zm-5-7zm-10 4zm-12-9zm-20 8zm-10-5zm-40-2zm-49 10zm-11-12zm-114 7zm-1 4zm-2 3zm-1-12zm-15 6zm-1 3zm-6 0zm-5-5zm-4 6zm-5-1zm-12-4zm-2 15zm2-7zm9 4zm0-4zm6 7zm1 6zm6-13zm9 6zm2-5zm4 0zm2 10zm13-6zm3-1zm2-3zm12 4zm105 1zm104-5zm3-1zm4 8zm6-9zm36 27zm-22-9zm-12 9zm-17 0zm-4-11zm-193 4zm-10-3zm-13 11zm-3-3zm-7-10zm-3 0zm-1 10zm-1-4zm-6 1zm-5 4zm-4-9zm-4 10zm-2-8zm-1-4zm-1 12zm-8-3zm-1-2zm-2 0zm-2-4zm-11 7zm-3 1zm-12 0zm-4-6zm0 9zm21 3zm1 8zm14 0zm5-5zm2-2zm1 2zm2 0zm1-6zm12 9zm15-4zm36-1zm193 2zm10-4zm3 10zm15-5zm-9 10zm-24 1zm-28 6zm-160-1zm-17-9zm-22 9zm-4 1zm-10-7zm-4-4zm-5 10zm-20-7zm-3 3zm-11 5zm-5-8zm-21 2zm18 16zm17-7zm1 8zm1 2zm2-9zm4 9zm5-2zm18 6zm14-13zm6 1zm29 1zm128 10zm5-1zm9-5zm2 0zm0-2zm11 0zm11-4zm6 7zm2-8zm2 1zm12 0zm14 15zm-7 7zm-18 2zm-22-11zm-4 0zm-5 13zm-5-13zm-19 4zm-3 9zm-7-11zm-26 10zm-1-3zm-4 2zm-64-4zm-18 6zm-13-7zm-8-3zm-1 2zm-16 0zm-7-5zm-12 1zm-11 3zm-8 2zm11 11zm3 1zm10 3zm3 6zm2-12zm1 7zm4-7zm15 11zm4-9zm8 0zm15 7zm7 0zm3-3zm11 6zm46-4zm2 4zm5-3zm1-5zm12 6zm2-8zm15-1zm13 11zm0-8zm7-4zm27 12zm0-13zm24 0zm-32 23zm-5-1zm-3 4zm0-7zm-1 2zm-2 4zm-13-1zm-4-9zm-2 7zm-7 2zm-6 0zm-5 0zm-3 3zm-1-2zm-14 3zm-4-5zm-12-8zm-14 4zm-3-3zm-4 1zm-6 3zm-9-2zm-17 2zm-5 6zm-3-1zm-8-4zm-10 0zm-4-6zm-4 8zm-3-4zm-2 8zm-9-6zm-10-2zm-8 8zm10 6zm14-3zm7 12zm3-1zm7-12zm3 0zm5 6zm7-7zm3 9zm1-5zm0 8zm11-1zm20 2zm1-12zm13 9zm1 3zm18-8zm56 2zm5-5zm102 4zm-161 11zm-22 7zm-1-5zm-10 6zm-50-7zm-11-2zm212 23zm23-3zm35 2zm28 10zm-45 26zm54 24zm-200 8zm105-1zm20-4zm-84 22zm-86 14zm5 1zm154-1zm3 11zm0-4zm-3-1zm-3-1zm-2 5zm-152 21z" stroke="#DD9283" stroke-width="6.7" stroke-linecap="round" fill="none"/><path d="M386 1272zm8 0zm34-5zm17-5zm3 2zm15 4zm38 18zm-7-9zm-6 5zm-9-3zm-29 8zm-4-11zm-19 1zm-9 7zm-4-8zm-20-1zm-25 6zm-5 6zm-7-1zm-126 15zm8 1zm7-8zm138-3zm25 1zm31 4zm16 1zm37-7zm18 3zm4 4zm11-9zm3 1zm1 3zm14 19zm-2 2zm-6-5zm-15 0zm-2 2zm-5-7zm-29 11zm-49-4zm-22-3zm-18-4zm-26 12zm-98-8zm-26 8zm-1-3zm0 1zm0-4zm-7 9zm2 3zm11 7zm5-11zm3 12zm16 0zm3-5zm2 0zm4 1zm112 5zm47-2zm44-6zm9 2zm23 5zm17-6zm14 9zm-12 3zm-29 5zm-100-3zm-11-4zm-102 7zm-3 0zm-5 0zm-15 2zm-8 1zm-6-5zm-3 5zm-10-8zm-4 5zm-2-5zm-4 0zm-4-3zm-1 1zm-10 9zm-4-10zm-2 7zm-5-8zm-1 12zm-12 8zm20-4zm3 0zm2 2zm4 6zm20-3zm28-6zm14 0zm9 9zm206-7zm5 5zm7-1zm11-6zm21 4zm-13 17zm-9-2zm-11 1zm-10-5zm-21 7zm0 1zm-1 3zm-178-11zm-5 1zm-22 9zm-12 0zm-8-3zm-3-9zm-6 4zm-1 2zm-2 1zm-6 0zm-29 14zm26-8zm2 6zm27 8zm183-7zm1-4zm12-2zm1 7zm11 6zm8-6zm20-7zm16 6zm5-7zm-19 22zm-11 0zm-13-7zm-30 1zm-1 2zm-14 8zm-4-2zm-5 0zm-7-8zm0 8zm-5-1zm-104-6zm-6 6zm-1-7zm-4 0zm-1 7zm-1-4zm0 6zm-2-2zm-8 4zm-3-7zm0 8zm-9-7zm-6 6zm-15-3zm-21 2zm-6-9zm-6 15zm5 2zm2-5zm13 9zm4-3zm0-3zm13 2zm11 5zm2-9zm12 9zm18-4zm6-4zm14 5zm48 2zm7-9zm4 7zm11-1zm5-7zm14 2zm44 10zm23-9zm1 4zm-21 8zm-7 4zm0 6zm-3-2zm-8-4zm-2 5zm-6-2zm-3-2zm-7 0zm-36 2zm-4 3zm-3-10zm-12 0zm-12 6zm-5 6zm-8-7zm0 3zm-21-7zm-1 8zm-3-2zm-5 0zm-13 2zm-13-4zm-38 3zm-1 4zm-9-8zm0-2zm12 13zm19 8zm3 2zm12-1zm9-9zm3 8zm15-4zm28 3zm12 2zm4-7zm6-2zm10 3zm27-3zm-53 22zm-6-8zm-1 7zm-14-6zm-22 3zm-10 0zm-1-4zm240 15zm56 26zm-71 26zm-180 14zm157 8zm38-3zm36-2zm-58 20zm-61-2zm44 22zm6-3zm5 7zm-14-2zm-4 5z" stroke="#EC7C66" stroke-width="6.7" stroke-linecap="round" fill="none"/><path d="M448 1278zm-28 18zm-153 93zm233-3zm-194 20zm-14 19zm35 11z" stroke="#F93B29" stroke-width="6.7" stroke-linecap="round" fill="none"/><path d="M419 1273zm1-5zm46 2zm14 17zm-8-9zm0 6zm-34-3zm-38-6zm-26 0zm-3 1zm88 22zm46-2zm4 2zm12 1zm10 6zm-5 10zm-289-5zm-9 0zm12 7zm253 0zm53 9zm7 15zm-16-9zm-37 2zm-217 5zm-30 1zm-52-4zm17 9zm7 9zm23-8zm5 4zm41 4zm191 1zm22-4zm7-5zm-31 17zm-3 3zm-247 0zm-1 19zm241-9zm17 20zm-10-2zm-168 4zm-11-6zm-72 7zm-6-4zm30 17zm14-11zm57 3zm61 0zm57 1zm-11 22zm-7-5zm-35 0zm-5 5zm-55-9zm-24 10zm25 2zm8 4zm14-6zm54 6zm-33 9zm-86 4zm259 11zm-247 79z" stroke="#CDA8A1" stroke-width="6.7" stroke-linecap="round" fill="none"/><path d="M429 1264zm8 3zm5-7zm9 4zm63 9zm22 9zm-4-3zm-7-1zm-3-2zm-12 11zm-1-11zm-2 2zm-38 8zm-87-10zm-5 11zm-127 13zm13 0zm123-10zm26 1zm18-1zm12 2zm1 7zm24-6zm38 7zm26-4zm4-4zm-25 20zm-15-1zm-58-7zm-4 7zm-10 2zm-3-7zm-7 5zm-2-2zm-1-4zm-1 9zm-4-1zm-3-6zm-1 5zm-1-2zm0-6zm-4 11zm-3-1zm-3-11zm-1 11zm-8-9zm-3 7zm-3-1zm-88 1zm-14-7zm-7 9zm0-9zm-2-1zm-6 0zm-5 11zm-31-3zm-3 0zm-2 2zm-1-2zm-17 17zm1-1zm6-7zm0 6zm1-1zm1-2zm2-2zm0 3zm12 1zm3-9zm5 6zm2 6zm3-12zm0 2zm18 7zm0-6zm11 4zm6 3zm4-1zm2 1zm5-3zm1-6zm8 6zm99 2zm1-3zm1-6zm5 10zm9-3zm4 1zm1-6zm5 3zm1 2zm77 5zm14-8zm7 5zm7-3zm9 17zm-42 1zm-2-3zm-36-7zm-10 3zm0 9zm-2-1zm-11 1zm-8-2zm-4-7zm-15 6zm-5 1zm-2-4zm-2-3zm-2 3zm-93-2zm-9 6zm-8-5zm-3 6zm-4-5zm-3 6zm-18-4zm-7-4zm-20 4zm-9-2zm-1 5zm-1 2zm-11-7zm-3 6zm-5-9zm-3 6zm-2-4zm-4 19zm3-10zm6 10zm5 0zm0-5zm1-6zm2 12zm3 0zm0 2zm1-5zm1-4zm7 4zm3 0zm7 4zm5-1zm6-1zm1-7zm4-1zm6 6zm3 4zm3-11zm12 6zm8 4zm14-6zm3 4zm123-10zm4 2zm12 4zm5-2zm9-4zm56 8zm15-2zm17 8zm3-1zm-35 5zm-21 1zm-2 6zm0-3zm-188-8zm-20 6zm0-4zm-20-2zm-2 6zm-9 3zm-8-6zm-7 8zm0-11zm-7 1zm-1 3zm0 2zm-1-5zm-5 9zm-4 0zm-3-4zm0-2zm0 10zm-1-2zm-3 2zm-2-6zm-1 6zm-5-12zm-2 16zm0 1zm13 0zm7-4zm3 3zm5 1zm1-2zm1 2zm5-2zm9-2zm17 8zm14-1zm6 2zm39-5zm8 3zm141-1zm48-3zm-61 19zm-3-3zm-123-4zm-16 6zm-32 1zm-5 1zm-23 2zm-8-11zm-2 20zm34-5zm7 3zm36 8zm20-5zm41-4zm24-1zm20 8zm6-8zm38 4zm8 12zm-16 3zm-35-3zm-13-2zm-4-1zm-10 3zm-40-4zm-13 4zm-94-4zm-2 7zm-5-4zm35 24zm36-7zm3-3zm7 4zm65-4zm7 8zm4-1zm1-8zm142 6zm2-2zm42 2zm14 3zm2 2zm6-2zm1-3zm1 4zm8-5zm2 3zm5-5zm-12 8zm-2 2zm-3 0zm-5 1zm-3 5zm-1-6zm-1-2zm-1 3zm0 7zm-11-8zm-11 12zm-2-5zm-2-6zm0 7zm0-3zm-10 4zm-6-8zm-15 1zm-5 10zm-4-2zm-29-4zm-4 3zm-12-1zm-26 2zm-1-2zm0-7zm0 2zm-1 8zm-1-4zm-3 4zm-2 0zm-10 1zm-2-2zm-116-5zm-22-4zm192 14zm8 1zm0-3zm1 9zm0-2zm2 2zm3-5zm2-1zm4 5zm2 4zm4-13zm5 4zm3-1zm2 5zm1-7zm2 3zm2 5zm2-7zm1 3zm5 3zm2 6zm0-2zm4-2zm0-2zm4-4zm1 8zm7-4zm0 3zm0-8zm1 10zm1-2zm0-2zm3 1zm4-4zm2 5zm3 1zm9-8zm3 1zm0 3zm3-7zm4 8zm1 2zm2-10zm8 13zm11 8zm-3-4zm0 2zm-4-2zm-5 3zm-3-2zm-2 6zm-2 2zm-3-11zm-3-1zm-2 3zm-8 0zm-2-1zm-5 10zm-1-9zm-4 8zm-2-7zm-1 5zm-2-3zm0-3zm-5 9zm-6-6zm0-6zm-2 6zm0-2zm-3 5zm0-10zm-3 13zm-2-7zm0 6zm-1-4zm-1 3zm-1-5zm-1 3zm-4 1zm-2-9zm0 11zm-6-11zm-5 11zm-1-7zm-9 3zm0-3zm-3-1zm-5 8zm-5-10zm-2-2zm-44 4zm-123 21zm3-9zm6 5zm123 2zm33 0zm0-3zm0-3zm3 2zm2 3zm2-3zm6 5zm4 3zm2-9zm3-3zm3 12zm2-5zm3 0zm1 3zm1-9zm5 2zm1-1zm1-2zm3 10zm0-10zm3 8zm0-6zm0-2zm6 6zm1-5zm1 8zm2 3zm2-2zm5 0zm0-4zm7-3zm3 6zm7 2zm4-5zm2 1zm2 3zm0-5zm1 7zm2-8zm1-1zm4 8zm3-1zm0-8zm1 2zm3-2zm4 2zm1 3zm3-6zm6 2zm-4 12zm-1 3zm-4 0zm-2 0zm-5 8zm-1-5zm-2 5zm-3-7zm-5 3zm-6-9zm-2 11zm-1-3zm-3-7zm-3 9zm-2-2zm0 5zm-2-5zm-4-5zm-1 10zm-2-5zm-1 5zm-3-11zm-2 12zm0-10zm0 2zm-4 0zm-3-5zm-2 2zm-7 11zm-4 0zm-5-10zm0 8zm-9-2zm-1-3zm-4-1zm0 3zm-2-2zm-2-2zm-3-2zm-1 5zm-1-5zm-1 2zm-1 4zm-5-9zm-4 12zm-5-3zm-4-1zm-2-6zm-6 11zm-103-2zm-28-1zm-17 1zm-21 13zm1 1zm1-4zm1 5zm2-3zm4 1zm14-9zm0 4zm8-2zm1 9zm2-6zm0-5zm7 9zm47 2zm31-1zm6-1zm12-1zm2-5zm2 2zm1-3zm2 9zm11 0zm4-5zm2 1zm1 2zm3-8zm7 1zm14 5zm2-7zm13 1zm5 0zm1 6zm3 2zm1-2zm0-6zm3 4zm0-5zm5 3zm2-3zm9 1zm3 12zm0-5zm6 3zm2-7zm1-4zm0 11zm2-6zm7 6zm1-2zm1-8zm5 9zm2 0zm1-2zm1-2zm1 3zm2-7zm2 10zm0-7zm8 1zm2-5zm0 6zm2-7zm3 5zm1-2zm2 9zm3-1zm2-8zm0-3zm1 5zm2-2zm-14 11zm-3 1zm-4-1zm-15 2zm-2 2zm-3-1zm-3 2zm0 2zm-3-3zm0-2zm-3 3zm-2-1zm-2-4zm-2 7zm-4 0zm-4-6zm-18 10zm-5-4zm-3-3zm0 3zm-4 4zm-7-3zm-8 1zm-2-2zm-5 6zm-10-13zm-1 6zm-2 2zm-18-5zm-3 7zm-3-2zm0 4zm-10-12zm0 10zm-3-3zm-11 4zm-23-1zm-10 1zm-4 1zm-41-4zm-6-8zm-1 7zm-2 2zm-1-2zm-3-2zm-15-3zm0 6zm-1-2zm-2-4zm-3-1zm-1 11zm-4-7zm32 9zm35 12zm16-11zm4 7zm1-5zm8 8zm2-11zm10 8zm4 1zm4 1zm3-7zm3 7zm3-2zm10-1zm7-6zm2 7zm3-3zm1 2zm4-2zm32-3zm3 3zm1-3zm4 1zm10 10zm0 11zm-13 2zm-3 1zm-20-6zm-2-7zm-4 6zm-1 7zm-3-2zm-1-7zm-1 8zm0-2zm-3-4zm-3-1zm-5-5zm-7 7zm-8-2zm-5 6zm0-7zm-4 3zm-6 4zm-12-3zm-1-7zm-2 8zm-3-3zm-2-3zm-5 7zm-7-10zm0 4zm-7 4zm-1-4zm-8-3zm-7 11zm-4-10zm-1 10zm-2-7zm-6 4zm-13 2zm-6-3zm-2-4zm-1 5zm0 3zm-9-1zm-2-2zm-2-2zm-1-5zm-2 11zm-4-6zm5 8zm2 5zm2 3zm1 3zm2-11zm1 10zm10-3zm1 2zm1 2zm1-5zm7-1zm4 3zm2-10zm1 9zm1 4zm1-12zm1 4zm8 2zm1-6zm4 11zm1 2zm5-2zm21-10zm1 6zm9-4zm2-1zm0-3zm6 7zm4-3zm4-4zm-30 14zm-3 7zm-2-3zm-1 3zm-1-6zm-3-1zm-2 11zm-8-5zm-5 6zm-2-6zm-1-3zm-1 9zm-1-2zm-2 2zm-2-5zm-1 4zm-3-7zm-3 2zm-3-5zm-1 11zm-1-3zm-3-9zm0 13zm-2-6zm-1-6zm-1 13zm-5-4zm-2-1zm-2-2zm-4-6zm-3 6zm24 8zm12 2zm4-1zm10-2z" stroke="#BEBEBE" stroke-width="6.7" stroke-linecap="round" fill="none"/><path d="M388 1274zm26-9zm19 1zm21-2zm2 3zm8-3zm34 5zm32 17zm-1-6zm-65-5zm-12 5zm-22 1zm-27 0zm-12-6zm-12 10zm-6-7zm-10 2zm-119 17zm10 4zm17 0zm99-9zm10 4zm4 3zm7-9zm2 7zm23-3zm18 5zm12-5zm2 7zm6-9zm51 10zm26-14zm6 16zm-25 6zm-10-5zm-2 4zm-5-1zm-3 0zm-66 6zm-3-11zm-9 11zm-148 2zm-1-13zm-5 8zm-4-6zm-3 4zm-4 2zm-18 3zm-10-7zm-1 12zm9 10zm19-6zm11-1zm6 5zm24-5zm111 1zm87 5zm6-7zm1 4zm9 1zm30-4zm-1 20zm-2-10zm-21 1zm-16 8zm-98-7zm-102 9zm-18-4zm-16 3zm-7 2zm-3-1zm0-12zm-5 0zm-3 8zm-4-9zm-2 9zm-5-4zm-1-2zm-8 17zm0 3zm16-9zm8 6zm2 0zm1 2zm2-1zm10 3zm2 0zm1-8zm0 10zm12-1zm225 0zm19-9zm1 7zm7-4zm3-1zm-17 12zm-4 4zm-2 3zm-7-8zm-11 2zm-26 10zm-189-10zm-1-2zm-12-1zm-20 12zm-13-1zm-9-6zm-2-4zm-29 14zm38 13zm11-11zm10 0zm4 8zm25-5zm23 6zm14-12zm121 9zm17-2zm9 4zm16-4zm0-4zm19 6zm17 2zm1-3zm7 2zm-21 16zm-2-10zm-12 7zm-10-7zm-10-2zm-6 11zm-23-7zm-15-3zm-136 7zm-11-3zm-16 3zm-14 5zm-3-4zm-13 9zm12 9zm19-2zm1-7zm2 1zm4-1zm16-2zm12 12zm4-11zm17-2zm42 13zm8-2zm20-11zm28 1zm11 2zm29 6zm-86 10zm-18 0zm0-3zm-8 10zm-42 0zm-7 0zm-6-4zm-8 0zm-14 0zm-4 1zm-9 11zm44 0zm2-2zm2 1zm7 0zm7 8zm9-12zm22 3zm5-2zm19 6zm16 0zm33-2zm17-6zm-62 17zm-11 1zm-8 0zm-14 2zm-29-5zm-4 6zm193 124z" stroke="#F25B47" stroke-width="6.7" stroke-linecap="round" fill="none"/><path d="M506 1341zm-251 68z" stroke="#FF1A0A" stroke-width="6.7" stroke-linecap="round" fill="none"/></g><path d="M80.8 619.7V811.7H327" fill="none" stroke="#000" stroke-width="1.8"/><text x="136.2" y="831.5" font-size="15.6" text-anchor="middle" fill="#000">−4</text><text x="195.8" y="831.5" font-size="15.6" text-anchor="middle" fill="#000">0</text><text x="255.4" y="831.5" font-size="15.6" text-anchor="middle" fill="#000">4</text><text x="315" y="831.5" font-size="15.6" text-anchor="middle" fill="#000">8</text><text x="71.8" y="663.9" font-size="15.6" text-anchor="end" fill="#000">5</text><text x="71.8" y="712.2" font-size="15.6" text-anchor="end" fill="#000">0</text><text x="71.8" y="760.6" font-size="15.6" text-anchor="end" fill="#000">−5</text><text x="71.8" y="808.9" font-size="15.6" text-anchor="end" fill="#000">−10</text><path d="M136.2 811.7v4.4M195.8 811.7v4.4M255.4 811.7v4.4M315 811.7v4.4M80.8 657.8h-4.6M80.8 706.1h-4.6M80.8 754.5h-4.6M80.8 802.8h-4.6" stroke="#000" stroke-width="1.8" fill="none"/><text x="202.7" y="854.1" font-size="18.8" text-anchor="middle" fill="#000">UMAP_1</text><text x="39" y="715.2" font-size="18.9" text-anchor="middle" fill="#000" transform="rotate(-90 39 715.2)">UMAP_2</text><text x="207.8" y="604.4" font-size="22" text-anchor="middle" fill="#000">Amy1</text><linearGradient id="cg0" x1="0" y1="0" x2="0" y2="1"><stop offset="0" stop-color="#FF1A0A"/><stop offset=".5" stop-color="#EC7C66"/><stop offset=".92" stop-color="#BEBEBE"/><stop offset="1" stop-color="#BEBEBE"/></linearGradient><rect x="345.3" y="668.3" width="20.8" height="105" fill="url(#cg0)"/><text x="374.9" y="687.2" font-size="16.3" text-anchor="start" fill="#000">3.5</text><text x="374.9" y="708.6" font-size="16.3" text-anchor="start" fill="#000">3.0</text><text x="374.9" y="730.2" font-size="16.3" text-anchor="start" fill="#000">2.5</text><text x="374.9" y="751.1" font-size="16.3" text-anchor="start" fill="#000">2.0</text><text x="374.9" y="772.2" font-size="16.3" text-anchor="start" fill="#000">1.5</text><path d="M345.3 681.4h4.2M366.1 681.4h-4.2M345.3 702.8h4.2M366.1 702.8h-4.2M345.3 724.4h4.2M366.1 724.4h-4.2M345.3 745.3h4.2M366.1 745.3h-4.2M345.3 766.4h4.2M366.1 766.4h-4.2" stroke="#fff" stroke-width=".7" fill="none"/><g transform="scale(.5)"><path d="M1240 1259zm98 75zm-293 15zm15 45zm-52-7zm97 15zm166 164zm12 4z" stroke="#F93B29" stroke-width="6.7" stroke-linecap="round" fill="none"/><path d="M1155 1287zm29-5zm99 0zm7-7zm-46 21zm-228 12zm31-2zm140 4zm96 3zm18 9zm-237-6zm-29 5zm-3 6zm-30 10zm2 3zm6-3zm27-4zm10 11zm279-13zm5 16zm-288 3zm-40 18zm250 16zm-223-6zm-16 2zm11 17zm245 4zm-44 11zm-36-10zm0 10zm-76-4zm-28-3zm5 23zm3-1zm18 0zm24-3zm93 2zm-94 12zm-36 0zm-29-5zm214 141z" stroke="#F25B47" stroke-width="6.7" stroke-linecap="round" fill="none"/><path d="M1235 1259zm46 12zm-45-4zm-11-3zm-3 8zm-2-11zm-1 13zm-20-5zm0 4zm-3-2zm-15-1zm-1 3zm-16 1zm-28 12zm5-6zm12-6zm10 3zm3 3zm5-4zm2 2zm4-1zm0 4zm4 3zm9 2zm8-5zm2-5zm1 11zm5-6zm0 2zm4-8zm8 11zm2-3zm28-5zm3-4zm8 12zm9-9zm13 0zm1-3zm4 2zm1 2zm5 7zm8-1zm4 2zm17 5zm-2 9zm-8 1zm-2-2zm-9-5zm-3 6zm-2-4zm-7-2zm-7 5zm-2 2zm-15-11zm-11-1zm-10 4zm-8 5zm0-8zm-4 2zm-1 4zm-8 6zm-1-10zm-5-3zm-11-1zm-1 6zm-3 1zm-6 5zm-12-10zm-3 3zm0 3zm-4-1zm-8-1zm-8 7zm-9-10zm-99 4zm-2 3zm-13-2zm-15 1zm-19 18zm2-1zm2-8zm3 8zm15-3zm9 1zm0-7zm1 2zm4 4zm8-3zm1 7zm5-5zm7-4zm0-4zm1 12zm5-3zm0 3zm93-6zm3-5zm8 8zm4 1zm2-10zm1 3zm15 6zm27 1zm9-8zm46 6zm12-3zm1 4zm1-2zm5-1zm5-3zm19-3zm6 9zm9 2zm-1 10zm-3 1zm-16-6zm-5 5zm-4 3zm-10-5zm-10 1zm-2-3zm-10 0zm-79 3zm-5-1zm-2 0zm-110-2zm-4-2zm-3 5zm-1 6zm-5-6zm-7 6zm-3 0zm-1-3zm-4-7zm-4 6zm-13-3zm-9 1zm-8 4zm0-7zm-2 2zm-5 4zm0-5zm-1-1zm-3 2zm0-3zm-1-2zm-1 2zm-12 7zm11 18zm6-7zm2-2zm1 3zm2 1zm3 6zm4-13zm1 10zm2-9zm6 10zm1-3zm6-3zm2 0zm3 0zm7 5zm0-9zm2 2zm7 7zm2-10zm0 3zm3 1zm1 3zm3-8zm6 10zm104-9zm3 0zm9 1zm99 4zm3 2zm1-4zm2-3zm1 5zm4 0zm4 4zm2 4zm3-5zm9-4zm14-2zm3 1zm8 4zm-22 8zm-5 10zm-28-7zm-11 1zm-194-5zm-8 3zm-9-2zm-1 10zm-15-4zm-2-6zm-1 9zm-7 1zm-10-8zm-4-2zm-3-1zm-7 9zm-2-3zm-2 4zm-1-9zm-7-1zm-11 4zm-15-1zm0 13zm20 8zm1-9zm11 1zm1-1zm1 7zm6 1zm3 2zm0-8zm13-2zm8 0zm2 4zm0-5zm6 3zm9-3zm1 2zm19 1zm19 0zm188-2zm4 11zm2 0zm2-3zm4-8zm12 9zm2-10zm1 18zm-6-4zm-21 9zm-1-3zm-5-3zm-14 5zm-10 0zm-5-7zm-15 8zm-9-3zm-173-1zm-7-5zm-9 7zm-5 1zm-1 2zm-13-1zm-10-4zm-5 4zm-13-1zm-1-7zm-7-1zm0 6zm26 9zm2 10zm12-11zm1 3zm1-4zm4 5zm15 6zm10-1zm24-3zm11 3zm1 4zm5-12zm6 3zm91 8zm8-7zm18-3zm15 4zm0-6zm8 2zm1 7zm3-4zm1-3zm5 7zm5-8zm3 12zm4-2zm3 2zm1-8zm9-2zm0 4zm5-6zm2 1zm4 5zm0-3zm-23 19zm0 3zm-3-7zm-1-4zm-1 11zm-5-1zm-3-3zm-3 2zm-3-10zm-4 5zm-5 4zm0-7zm0 2zm-11 7zm-1-2zm-4-7zm-21 5zm-7 0zm-2 5zm-1-6zm-7 6zm-3-13zm-9 4zm-2-3zm-14 5zm-10 6zm-28-2zm-3 3zm-1-4zm-6-9zm-6 5zm-16 6zm-4 1zm-10-6zm-27-5zm-9 0zm-2 1zm-12 0zm-10 7zm26 18zm1-11zm3 3zm3-3zm3-1zm18 8zm8-8zm12 10zm7-11zm2 2zm6 3zm1 6zm6 2zm11-13zm1 11zm7-6zm4-1zm2 6zm0-6zm3 7zm10-9zm12 1zm15 1zm2-3zm1 11zm4-6zm13 3zm6 2zm0-3zm7-3zm4-2zm1 9zm4-6zm8-6zm3 4zm5 0zm10 5zm9-1zm3-7zm6 2zm-48 16zm-4-2zm-22 7zm-14-9zm0 8zm-5 2zm-3-10zm-13 11zm-3-4zm-11-7zm-3 10zm0-2zm-7-9zm-7 14zm-11-6zm-29-3zm-5 9zm-15-7zm-5 3zm-3-2zm-3 0zm-15-7zm26 14zm6 0zm3 2zm2-2zm17 2zm5 6zm6-2zm11-5zm13 0zm2 3zm1 2zm6 4zm8-5zm12-3zm15-3zm66 12zm125 24zm31 28zm-75 8zm-36 54zm19 2z" stroke="#EC7C66" stroke-width="6.7" stroke-linecap="round" fill="none"/><path d="M1179 1271zm35-10zm24 0zm6 10zm33 2zm40 13zm-165-7zm-127 18zm7-3zm179 2zm19 3zm48-6zm-51 15zm-3 0zm0-4zm-1 2zm-3 1zm-7 6zm-13-6zm-2-2zm-9 9zm0-6zm-11 5zm-1-2zm-4-6zm-8-3zm-2 5zm-4-2zm-1 11zm-9-12zm-87 7zm-12-7zm-18 11zm-12-12zm-23 12zm-11 15zm0-6zm1 3zm1 1zm3 1zm5-13zm15 1zm7 4zm3 5zm12-5zm17 6zm115-10zm5 1zm3 3zm2 7zm4-7zm1 5zm3-7zm1 8zm2-9zm11-1zm6 5zm26 8zm5-6zm11-8zm40 23zm-52-6zm-2-2zm-1 4zm-6 6zm-11-4zm-9 2zm-5 3zm-32-10zm-122 2zm-8 1zm-5-1zm-11 0zm-16 9zm-10-11zm-1 5zm-1-2zm-1 6zm-1-9zm-3 0zm-1 2zm-2-2zm-1 7zm-1 1zm-1-7zm-8 3zm-1 18zm18 3zm2-1zm3-5zm2 1zm5-8zm27 12zm48 2zm99-14zm15 0zm3 4zm18-1zm58 1zm29 24zm-39-6zm-208 1zm-2 3zm-8-5zm-30 5zm-18-4zm-8 4zm-2-8zm-4 6zm0-7zm-7-2zm-4 12zm15 8zm8-4zm1 7zm15-7zm4 9zm21-10zm12 4zm208 5zm58-10zm-37 13zm-7 14zm-40-4zm-155 0zm-19-6zm8 14zm153 5zm-64 14zm-5 0zm-41 1zm-15 2zm-7-7zm-10-2zm-6 10zm-4-2zm-20-8zm-4 16zm10-1zm21 5zm20 3zm26-8zm7 3zm34-3zm144 10zm12-6zm10 5zm54-1zm8-4zm1 3zm1-2zm3 5zm1-4zm2-1zm1-3zm2 3zm-23 16zm-5 1zm0-5zm-10 0zm-7 1zm-17-2zm-1 8zm-2-8zm-7 1zm-9-4zm-10 1zm-3 4zm-3-1zm-3 6zm-2 0zm-1-1zm-5-2zm-5-1zm-5 4zm-6-4zm-3 5zm-2-1zm-33-8zm-11 8zm-1-9zm-1 10zm-2-10zm-52-3zm-52 6zm-51-3zm202 16zm4 3zm9-7zm1 1zm1 9zm3 1zm2-11zm0 4zm5-4zm19 5zm4-2zm2 5zm3-10zm12 4zm10 0zm1 5zm5-3zm1 2zm8 1zm5 5zm10-4zm4 4zm0-2zm14 13zm-11-2zm-6-7zm-6 4zm-1 7zm-3-6zm0 4zm-3-2zm-2-3zm-1 1zm-1 4zm-6-10zm-4 12zm0-2zm-1-7zm-1 5zm-11 1zm-3 2zm-8-6zm-5 3zm-5-2zm-3 6zm-10-9zm-6 5zm0-8zm0 6zm-2-4zm-2 2zm-1-4zm-1 11zm-1-10zm-17 0zm-161 11zm-10 9zm4 2zm14-1zm139-4zm15 7zm5-9zm3 5zm2-3zm2 8zm0-5zm8-6zm2 3zm0-2zm0 5zm3-7zm2 10zm1-8zm2-3zm2 7zm3-5zm4 7zm4-2zm0 5zm4-11zm0 7zm2-5zm1 2zm2 6zm2 0zm4 3zm1-4zm1-10zm3 10zm3-10zm2 12zm4-10zm8 8zm4 0zm6-2zm1 3zm2-11zm5 8zm4-3zm1 6zm4-6zm1 9zm4-10zm1-3zm-5 15zm-1 5zm-1 5zm-2-10zm-1 10zm-2-3zm-5-9zm-3 13zm0-2zm-4-5zm-2-3zm-1 5zm-3 0zm-1 1zm-1-6zm-3-2zm-2 10zm-4-7zm-4 9zm-1-9zm-1-4zm-3 11zm-7 0zm-3-8zm-1-3zm-9 3zm0 5zm0 5zm-2-12zm-1 6zm0 2zm-2-6zm-1 3zm-1 3zm-5-9zm-1 2zm-2-2zm-9 13zm-4-2zm-16-2zm-4 2zm-1 3zm0-2zm-4 0zm-6-1zm-124-6zm-7 1zm-3 1zm-13 3zm-6-3zm-22 16zm0 2zm5-1zm13-2zm12 1zm1-2zm3 3zm2 4zm3-6zm1 3zm19-3zm25-5zm15 8zm2 1zm0 2zm10-4zm18 3zm22-2zm6-8zm3 10zm3-7zm9 7zm16 1zm0-2zm3 0zm9-10zm4-2zm7 4zm0 2zm1-5zm3 9zm1-6zm11 10zm1-4zm5 0zm0-3zm2-6zm4 4zm3 5zm2-3zm2-3zm1-2zm2 5zm0 7zm3-1zm5-3zm1-5zm1 8zm0-5zm2-6zm0 2zm4-3zm1 4zm0 3zm1 5zm8-4zm1-4zm1 5zm6 1zm2-1zm3 0zm1-9zm1 6zm4-5zm-22 15zm-9 0zm-1-3zm-6 8zm-4-7zm0 3zm-2 6zm-1-2zm-4 2zm-5-5zm-3-2zm0 3zm-5 0zm-21 7zm-6-11zm-1 11zm-2-7zm-3 1zm0-5zm-2 9zm-1-6zm-1 9zm-10-7zm-11-4zm-1 3zm0 4zm-2-5zm-5 7zm-8 1zm-19-1zm0-2zm-1-5zm-28 7zm-7-10zm-2 10zm-3-9zm-3 2zm-2-3zm-1 9zm-2-3zm-1 4zm-55-8zm-23 6zm0-9zm-1 8zm-4-9zm-1 6zm-1-5zm0 4zm-2 7zm-2-5zm-4 1zm8 6zm6 13zm21-8zm2 3zm4-4zm1-3zm43 0zm1 12zm3-2zm0 2zm1-13zm7 2zm1-1zm4 3zm11-2zm6 11zm3-12zm9 0zm5 10zm1-4zm2 4zm4-6zm1-5zm6 13zm32-10zm18-1zm3-1zm1 2zm6-2zm5 0zm-4 26zm-15-4zm-20-5zm-6 0zm-1 1zm-6 5zm-5-9zm-2 3zm-2-4zm-4 8zm-1-3zm-3 6zm-1-8zm-16 5zm-2-6zm-6 1zm-6 5zm0-2zm-14-2zm-7-1zm-4-1zm0 3zm-2 5zm-14-4zm-8 7zm-4-3zm-7-2zm-5-3zm-3 6zm-1-6zm-3 8zm-1-2zm-6-1zm-5 2zm-5-5zm-2 5zm0-6zm-4 2zm-2-2zm-2-5zm-2 8zm-2 1zm-3 4zm5 5zm9-3zm0 9zm0-7zm2 5zm3-1zm3 4zm2-8zm1 6zm1-4zm2 2zm4-7zm1 9zm7-7zm2 6zm2 2zm3 1zm2-11zm1 9zm0 2zm7-1zm1-9zm1 11zm1-3zm3-3zm3 1zm10-5zm2 3zm1-4zm2 3zm3 5zm0-6zm8 2zm4-1zm1-1zm10-1zm4 1zm76 0zm1 3zm2-2zm-107 12zm-1 3zm0-2zm-2-2zm-1 8zm-3-9zm-3 1zm-1 9zm-1-9zm-3 12zm-2-12zm0 7zm-1-4zm-2 4zm-3-8zm0 7zm-3-5zm0-2zm-1 4zm-1 4zm-2-1zm-7-6zm0 8zm-2-7zm-2-2zm0 8zm-4 1zm-3 4zm-2 0zm-3-9zm-5 6zm-2-5zm0 6zm-1-3zm0-5zm-2 2zm-1 6zm-1-12zm-3 14zm-3-1zm-1-8zm-2-3zm-3-1zm11 14zm20 3z" stroke="#BEBEBE" stroke-width="6.7" stroke-linecap="round" fill="none"/><path d="M1014 1310zm20 16zm-1-3zm-23-4zm-2 2zm-17 16zm14-3zm12 0zm48 8zm-41 3zm-25 3zm-2 9zm-3-11zm-5 10zm-8-3zm-6 3zm46 14zm11-2zm10-8zm-46 15zm-20 2zm346 129zm1 22zm-91 16zm-129 24z" stroke="#CDA8A1" stroke-width="6.7" stroke-linecap="round" fill="none"/><path d="M1251 1260zm42 14zm-5-1zm-2-4zm-8-1zm-10 6zm-15-5zm-24 3zm-12-8zm-8 9zm-7-3zm-12-4zm-2 3zm-1-2zm-54 20zm5-6zm3 1zm2 3zm2 1zm2-1zm4 0zm53-10zm3 2zm22 4zm28 2zm2-5zm2 4zm12 6zm7-4zm17-4zm4-5zm6 9zm10 11zm-3-1zm-21 1zm-2-2zm-7 5zm-12-2zm-1-6zm-22 7zm-4-6zm-4 9zm-8-5zm-13 0zm-3 1zm-4-2zm-2-3zm0 8zm-5-2zm-5-5zm-2 5zm-6 1zm-3-9zm0 7zm-1-5zm-2 7zm-1-8zm-3 5zm-29 1zm-5 3zm-11-10zm-82 12zm-42-3zm-3 3zm1 14zm1-8zm12 7zm1-11zm1 8zm1-9zm7 0zm1 1zm8 6zm9-3zm0-4zm2 10zm2-9zm1 9zm2-8zm105 11zm46-6zm60 1zm0 6zm9-1zm7-11zm3 9zm1-10zm4 1zm3 5zm4-2zm3 4zm1-6zm2 7zm8 1zm5 2zm3-9zm8 10zm1 10zm-1 2zm-3 1zm-1-10zm-1 6zm-4-2zm-6-6zm-4 4zm0 5zm-1 2zm-2-3zm-1-4zm-10-2zm-7 10zm-17-9zm-2 2zm-67-5zm-25 12zm-5-10zm-103-2zm-1 3zm-3-2zm-3 5zm-1-2zm-6 2zm-1-4zm-3 6zm-2-7zm-8 5zm0 3zm-7-4zm-8 8zm-7-7zm-4 0zm-10 0zm-14 1zm-19 7zm3 11zm4-8zm4 6zm0 2zm1-3zm7 0zm7 3zm3-5zm2-5zm1 10zm5-12zm5 2zm2 8zm1-2zm2 2zm2-7zm1 5zm17 6zm3-5zm3-2zm0 2zm2-1zm7-5zm7 0zm1-2zm4 6zm2-5zm9 0zm192 3zm4 1zm3-3zm2 6zm2-7zm24 3zm1-3zm1 10zm5-4zm2-3zm13 7zm4-7zm3 1zm-11 12zm0-3zm-10 7zm-3-2zm-8 0zm-3-2zm-7-2zm-1 6zm-3-7zm-4 1zm-1 9zm-5 2zm-2-11zm-7 7zm-4-3zm-178-5zm-15 3zm-12 7zm-13-10zm0 6zm-1-3zm-6 9zm-2-4zm-1-8zm0 11zm-7-8zm-1 7zm-2-7zm-14 10zm0-8zm-3 8zm-5-9zm-7 1zm-3 0zm-6 2zm-6 2zm0-6zm-7 19zm7-1zm13-4zm2-1zm17 9zm7-2zm2-9zm5 6zm3-6zm0 8zm2 1zm9-7zm0 11zm4-5zm7-1zm9-4zm17-2zm171 10zm19-1zm1-4zm3-6zm4 7zm6-3zm4-3zm5 11zm1-9zm4 6zm0-10zm1 6zm6 7zm0-9zm13 8zm-16 6zm-15 9zm0-12zm-10 11zm-3 0zm-25-8zm-4 6zm-9 1zm-5 0zm-13 1zm-1-3zm-136-3zm-3-5zm-3 5zm-10 4zm-23 2zm-4-2zm-4-1zm-9-4zm-3-3zm-8-2zm-4 4zm-4 1zm-2-2zm-1 2zm-6-2zm-1 9zm-3-4zm-2 5zm0-7zm-5 0zm-2-2zm-10-2zm31 20zm1 2zm9 0zm11-4zm5-3zm5 10zm3 0zm2-11zm3 1zm8 5zm9 0zm19-4zm5 1zm3 1zm1 7zm93-5zm4-3zm8 0zm3 7zm2-4zm10 5zm29-4zm2-3zm5 1zm16-3zm0 10zm2-7zm1 5zm9-1zm-10 8zm-10 8zm-17-9zm-5 7zm-2-4zm-10-3zm-13 3zm-4 2zm-14 5zm0-5zm-2-5zm-1 8zm-2-2zm-2-10zm-2 5zm-1-3zm-6 11zm-10-2zm-11-8zm-39 7zm-7-4zm-23 3zm-3 5zm-9-5zm-3-4zm-12 8zm0-4zm-5 0zm-4 0zm-1 4zm-2-5zm-1-5zm-2 6zm-5-3zm-3 4zm-2-2zm-2-4zm-12 4zm0-7zm-2 9zm-7-1zm-2 5zm2 2zm4-1zm9 4zm5 1zm6 3zm6-6zm7 9zm0-9zm3-1zm10 5zm0-4zm4 1zm5-1zm7 2zm6 2zm2-5zm1 4zm4-2zm36 2zm14-1zm9 6zm5-4zm6 4zm5-3zm15 3zm0-7zm11 4zm2-4zm3 8zm6 1zm5-12zm8 3zm24 4zm11-7zm1 3zm5-2zm-51 14zm-14 1zm-19-2zm-5 1zm-3 10zm-1-5zm-6 4zm-1-4zm-1-3zm-8-1zm-7 0zm-16 7zm-11-1zm-12-7zm-1 12zm-11-5zm-1-6zm-25 9zm-9-11zm-5 7zm-4-3zm34 10zm16 6zm15-1zm15-2zm3-3zm6 8zm1-8zm5 2zm2 3zm11 0zm0-6zm2 2zm6 2zm225 33zm-274 21zm192 8zm24 2zm-55 3zm-33 3zm-119 14zm50 2zm49 4zm-37 11zm101 20zm5 5zm-1-2zm-8 5zm-1 0zm-4 2zm-151 23z" stroke="#DD9283" stroke-width="6.7" stroke-linecap="round" fill="none"/><path d="M1262 1387z" stroke="#F93B29" stroke-width="6.7" stroke-linecap="round" fill="none"/><path d="M1173 1272zm0-2zm4 2zm26-4zm8-1zm1-3zm4 2zm4 1zm5-7zm3 2zm4 2zm11-4zm11 13zm6-12zm6 5zm2 5zm13-2zm16 4zm24 14zm-7-4zm-6-5zm-10-1zm-4 10zm-4-9zm-6 8zm-22-7zm-7-1zm-10 2zm-10 0zm-6-4zm-5 1zm-2 9zm-9-5zm-12 3zm-3-8zm-12 5zm-3-6zm-6 0zm-6 4zm-5-3zm-3 9zm-6-10zm-3 1zm-14 10zm-120 13zm2 3zm23-1zm1-1zm8 1zm87-10zm26 8zm0-8zm8-1zm1 7zm16-5zm17-4zm4 2zm4 9zm0-5zm6 2zm16 1zm12-4zm31 9zm6 0zm3-1zm13-2zm9-7zm2 4zm3-4zm10 23zm-1-4zm-2 2zm-2-5zm-3-4zm-1 4zm-5-3zm-1 7zm-4 3zm-14-5zm-10-5zm-2 4zm-2 2zm-3-3zm-9 6zm-38-10zm-12 6zm-3 1zm-10 2zm-23-9zm-9-1zm-3-1zm-10 10zm-3-1zm-101 2zm-2-6zm-1 9zm-5-2zm-8-10zm-1 1zm-2 5zm-1 3zm-1 2zm-4-4zm0 2zm-3 2zm-1-3zm0 1zm0-4zm-5 5zm-19-7zm-4 7zm3 5zm0 5zm9 5zm2-8zm1-4zm6 13zm2-9zm4-4zm7 11zm2-2zm0-6zm1 3zm2-6zm18 9zm6-2zm3-6zm6 4zm1 2zm1-2zm100 1zm26 1zm76-7zm1 12zm0-4zm9-8zm4 8zm7-9zm5 13zm15-7zm2 1zm1 9zm-5 10zm-2-2zm-3-6zm-12 9zm-6-10zm-3 8zm-7 2zm-6-2zm-95-8zm-97 3zm-5-1zm-3 8zm-5-3zm-12 2zm-3 0zm-8-11zm-6 7zm-2 0zm0 5zm-3-3zm-2 2zm-7-11zm-1 4zm-4 8zm0-8zm-4 0zm-5 3zm-2 0zm-2-4zm-3 5zm-7-7zm-20 19zm10-2zm10 4zm8 1zm1 1zm8 1zm1-1zm3-4zm2-4zm1 4zm3-6zm4 7zm1 5zm2-6zm5 3zm5 0zm10-4zm3-4zm23 9zm10-6zm178 6zm13-3zm3 3zm2-7zm5 5zm2-6zm3 10zm0-7zm1-4zm2 6zm3-6zm8 3zm1 3zm2 6zm0-10zm4 9zm13-7zm-34 10zm-8 1zm-5-2zm-11 2zm-5 2zm-1 5zm0 1zm-1 3zm-5-9zm-14 8zm-164-9zm-12-4zm-30 10zm-3-9zm-18 8zm-3-1zm-11-2zm-1-6zm-4 1zm-23 7zm-1 6zm13 1zm11 4zm4 3zm3-7zm6 0zm3 12zm3-13zm3 6zm8-3zm4 11zm0-3zm11-3zm5 2zm5-8zm4 4zm24-3zm13-3zm2 8zm113 5zm6-4zm17-2zm16-6zm5 7zm4-1zm6 1zm31 3zm4-4zm3 3zm-21 16zm-19-4zm-34 5zm-10-9zm-11 6zm-3-6zm-4 6zm-6-8zm-31 9zm-64-4zm-5 5zm-3-9zm-6-1zm-7 3zm0 6zm-2-2zm-8 4zm-1-5zm-7-5zm-10 10zm-1-10zm-4 7zm-4-2zm-5-8zm-10 13zm-3-4zm-1 3zm-9-8zm-8 5zm4 6zm14 12zm3-6zm0-3zm4 3zm5 5zm5-11zm1 10zm6-9zm3 9zm3-6zm2 7zm9-1zm2-8zm11 11zm4-4zm1-3zm6-4zm0 7zm2 3zm7-12zm5 12zm8-5zm29 6zm11-10zm1 6zm6-5zm5 3zm6 3zm2-8zm8-3zm7 2zm13 3zm8-4zm0 3zm32 11zm-7 4zm0 6zm-3-2zm-4 0zm-5-1zm-3 4zm0-7zm-3 3zm-11-2zm-1 4zm-5-9zm-2 7zm-16-6zm-5 11zm-5-8zm-2 3zm-7-7zm-17 0zm-12 12zm-2-8zm-5 8zm-1-7zm0 3zm-11-5zm-11 6zm-3-2zm-4 0zm-4-2zm-15 5zm-1-4zm-14-6zm-17 9zm-11-5zm-3 4zm-1 4zm-6-12zm-1 7zm-6-4zm19 17zm15-5zm4 10zm12-1zm0-10zm3 0zm12 4zm3 1zm0 3zm2 3zm10-1zm1 3zm0-6zm9-6zm5 6zm3-6zm3-1zm5 5zm6-1zm2 5zm23-5zm9-1zm7 8zm4-1zm17-5zm15 1zm125 10zm-172-2zm-2 3zm-58 3zm-8 1zm-6-2zm-13-1zm-14-3zm283 22zm15 8zm-28-3zm-109 50zm96 0zm46 6zm-136 22zm50 19zm-6 7zm6 0zm1-5zm8 4z" stroke="#EC7C66" stroke-width="6.7" stroke-linecap="round" fill="none"/><path d="M1246 1268zm31 9zm-22 7zm-99-6zm60 24zm77-4zm5-1zm-248 19zm-30-6zm-18 2zm41 10zm11 5zm5 0zm239-1zm-14 47zm-67 11zm-135 15zm160-2zm26-2zm-8 12zm-224 1zm-28-2zm35 15zm40 4zm25-7zm65 13zm-22 6zm-65-2zm-8 0zm-28 7zm69 9zm189 29zm60 5z" stroke="#F25B47" stroke-width="6.7" stroke-linecap="round" fill="none"/><path d="M1226 1273zm25-10zm-31 15zm-25 2zm-20-5zm-141 25zm287-3zm-111 17zm-7-8zm-6 8zm0-7zm-1 4zm-2-2zm0-4zm-2 9zm-4-1zm-3-6zm-1 5zm-1-2zm-1 4zm-2 1zm0-12zm-4 11zm-12-9zm-11 10zm-96-6zm-8-4zm-23 3zm-9 5zm-18-1zm-10 9zm1 6zm3-5zm1 3zm11 1zm8-3zm6-6zm1 7zm3-7zm149 9zm2-9zm5 10zm0 3zm1-7zm3 0zm5 1zm4 1zm1-6zm5 3zm28 6zm103-2zm-16 6zm-80-1zm-10 3zm0 9zm-1-1zm-12 1zm-8-2zm-4-7zm-6 3zm-9 3zm-5-6zm0 7zm-2-4zm-1-3zm-3 3zm-126 0zm-33-2zm-9 7zm-5-3zm-1-2zm-2 5zm0 2zm-3-13zm-7 6zm-2 5zm-3-6zm-6 4zm-3-4zm-4 19zm10 0zm4 0zm2-11zm5 14zm1-5zm12 3zm2-6zm1 3zm1-4zm13-1zm9 2zm1 3zm0-1zm6-6zm12 6zm30 2zm119-10zm3 2zm12 4zm6-2zm8-4zm77 18zm-252-2zm-20-2zm-8 8zm-26-7zm-1 10zm-5-1zm-6-4zm-1 8zm-1-2zm-2 2zm-9-12zm-3 3zm2 14zm1-4zm12 4zm9-1zm6-1zm6 0zm1 7zm252 4zm48-14zm-20 16zm-2-2zm-2 2zm-3 7zm-47-5zm-35 5zm-97-7zm-12 7zm-4-1zm-39-3zm-34-2zm11 15zm2 6zm26-6zm54 4zm55-7zm75 12zm-12 6zm-73-4zm-22 1zm-10 3zm-36 5zm-5 3zm-28-4zm28 7zm14 4zm41 7zm2-10zm5 1zm5-2zm75-1zm94 5zm4 3zm58 3zm2 2zm6-2zm2-3zm0 4zm9-5zm2 3zm4-5zm-12 8zm-2 2zm-3 0zm-5 1zm-3 5zm-1-6zm-1-2zm-1 3zm-11-1zm-10 12zm-3-5zm-2-6zm0 7zm0-3zm-10 4zm-21-7zm-5 10zm-3-2zm-29-4zm-5 3zm-12-1zm-26 2zm-1-2zm0-7zm0 2zm-1 8zm-1-4zm-2 4zm-3 0zm-9 1zm-3-2zm-120-10zm-21 0zm195 15zm1 8zm7-7zm0-3zm1 9zm0-2zm3 2zm2-5zm2-1zm4 5zm2 4zm3-5zm1-8zm6 4zm2-1zm3 5zm0-7zm2 3zm2 5zm2-7zm1 3zm1-2zm4 5zm3 6zm0-2zm3-2zm0-2zm4-4zm0 6zm1 2zm2-10zm5 6zm0 3zm0-8zm1 10zm1-2zm0-2zm7-3zm2 5zm4 1zm8-8zm3 1zm0 3zm3-7zm4 8zm1 2zm2-10zm8 13zm11 8zm-3-4zm0 2zm-4-2zm-5 3zm-2-2zm-3 6zm-1 2zm-4-11zm-3-1zm-2 3zm-8 2zm-1-3zm-6 10zm-1-9zm-4 8zm-1-7zm-2 5zm-1-3zm-1-3zm-5 9zm-5-6zm-2 0zm-1-2zm-3 5zm0-10zm-3 13zm-2-7zm0 6zm-1-4zm-1 3zm-1-5zm0 3zm-7 3zm-6-11zm-5 11zm-1-7zm-9 3zm0-3zm-3-1zm-5 8zm-5-10zm-2-2zm-43 4zm-124 21zm3-9zm7 5zm123 2zm32 0zm0-3zm1-3zm2 2zm2 3zm2-3zm6 5zm4 3zm2-9zm3-3zm3 12zm2-5zm3 0zm1 3zm2-9zm4 2zm1-1zm1-2zm3 10zm0-10zm3 8zm1-8zm6 6zm0-5zm1 8zm2 3zm2-2zm6 0zm0-4zm7-3zm2 6zm7 2zm4-5zm3 1zm1 3zm0-5zm1 7zm2-8zm1-1zm4 8zm3-1zm0-8zm1 2zm4-2zm3 2zm1 3zm3-6zm6 2zm-4 12zm-1 3zm-4 0zm-1 0zm-6 8zm-1-5zm-2 5zm-2-7zm-6 3zm-6-9zm-2 11zm-1-3zm-3-7zm-3 9zm-2-2zm0 5zm-2-5zm-4-5zm-1 10zm-2-5zm-1 5zm-3-11zm-2 12zm0-10zm0 2zm-3 0zm-4-5zm-2 2zm-7 1zm0 10zm-4 0zm-5-10zm0 8zm-3 1zm-6-3zm-1-3zm-3-1zm-1 3zm-2-2zm-2-2zm-3-2zm-1 5zm-1-5zm-1 2zm0 4zm-6-9zm-4 12zm-5-3zm-4-1zm-2-6zm-6 11zm-103-2zm-28-1zm-17 1zm-21 13zm1 1zm1-4zm1 5zm2-3zm4 1zm14-9zm1 4zm7-2zm1 9zm2-6zm0-5zm4 12zm3-3zm47 2zm31-1zm6-1zm14-6zm2 2zm1-3zm2 9zm11 0zm4-5zm2 1zm2 2zm2-8zm8 1zm13 5zm2-7zm13 1zm5 0zm1 6zm3 2zm1-2zm1-6zm2 4zm0-5zm5 3zm2-3zm9 1zm3 12zm7-2zm1-7zm1-4zm0 11zm2-6zm8 6zm0-2zm1-8zm5 9zm3-2zm1-2zm1 3zm2-7zm2 10zm0-7zm8 1zm2-5zm0 6zm3-7zm2 5zm1 8zm1-10zm1 9zm3-1zm2-8zm0-3zm1 5zm2-2zm-17 12zm-4-1zm-4 1zm-11 1zm-1 2zm-4-1zm-2 2zm-1 2zm-3-3zm0-2zm-3 3zm-2-1zm-2-4zm-2 7zm-4 0zm-1-4zm-3-2zm-18 10zm-3-9zm-2 5zm-2-3zm-1 3zm-4 4zm-5-5zm-2 2zm-4-2zm-4 3zm-2-2zm-5 6zm-10-13zm-1 6zm-2 2zm-18-5zm-3 7zm-2-2zm-1 4zm-10-2zm-2-3zm-11 4zm-24-1zm-9 1zm-1-4zm-3 5zm-42-4zm-6-8zm0 7zm-3 2zm0-2zm-4-2zm-15-3zm0 6zm-1-2zm-2-4zm-2-1zm-2 11zm-1-2zm-2-5zm31 9zm35 12zm16-11zm4 7zm1-5zm8 8zm2-11zm10 8zm4 1zm4 1zm3-7zm3 7zm4 0zm10-3zm6-6zm5 4zm2 2zm1-2zm2 0zm32-3zm3 3zm1-3zm4 1zm19 4zm-11 17zm-11 2zm-2 1zm-21-6zm-2-7zm-4 6zm-1 7zm-3-2zm-1-7zm-1 8zm0-2zm-3-4zm-3-1zm-4-5zm-7 7zm-9-2zm-4 6zm-1-7zm-4 3zm-5 4zm-13-3zm-1-7zm-2 8zm-3-3zm-2-3zm-5 7zm-7-10zm0 4zm-6 4zm-2-4zm-8-3zm-7 11zm-4-10zm-1 10zm-2-7zm-5 4zm-2 2zm-4-1zm-8 1zm-6-3zm-2-4zm-1 5zm-9 2zm-2-2zm-2-2zm-1-5zm-2 11zm-3-6zm4 8zm2 5zm2 3zm2 3zm2-11zm0 10zm10-3zm2 2zm1 2zm0-5zm7-1zm4 3zm2-10zm1 9zm1 4zm2-12zm0 4zm8 2zm1-6zm4 11zm1 2zm5-2zm21-10zm1 6zm9-4zm2-1zm0-3zm6 7zm4-3zm4-4zm79 2zm8 1zm2 1zm0 4zm4-4zm-123 10zm-3 7zm-1-3zm-1 3zm-1-6zm-4-1zm-2 11zm-8-5zm-5 6zm-2-6zm-1-3zm-1 9zm-3 0zm-1-5zm-1 4zm-4-7zm-3 2zm-2-5zm-1 11zm-2-3zm-3-9zm0 13zm-2-6zm-1-6zm-1 13zm-5-4zm-2-1zm-1-2zm-5-6zm-3 6zm25 8zm4-1zm7 3zm4-1zm10-2z" stroke="#BEBEBE" stroke-width="6.7" stroke-linecap="round" fill="none"/><path d="M1015 1301zm41 4zm-9-1zm-64 24zm25-11zm36 11zm4-4zm12-3zm6 18zm-3-3zm-15 7zm-1-2zm-13-2zm-16 0zm-3-6zm-2 0zm-29 3zm18 12zm5 9zm19-6zm19 3zm4 17zm-5-13zm-16 10zm0-4zm-4 6zm-26-11zm-9 2zm27 19zm32-7zm269 62zm-4 52zm-182 105z" stroke="#CDA8A1" stroke-width="6.7" stroke-linecap="round" fill="none"/><path d="M1036 1350zm195 29zm-6 16z" stroke="#FF1A0A" stroke-width="6.7" stroke-linecap="round" fill="none"/><path d="M1169 1272zm2 2zm10-6zm16-3zm5 8zm4-7zm28-2zm2 7zm1-7zm2 3zm2-1zm6-2zm3 6zm69 12zm-3-3zm-3 7zm0-6zm-5 6zm-3-10zm-8 9zm-5-9zm-9 1zm-6 10zm-2-13zm-4 8zm-8 5zm-11-1zm-5-11zm-14 12zm-2-9zm0 5zm-10-2zm-7 2zm0-8zm-4 2zm-12 8zm-38 2zm-7-6zm-6 6zm0-7zm-9 4zm-111 13zm2-3zm8 7zm16-1zm100-8zm10 4zm0-8zm1 3zm6-1zm0 10zm25-9zm4 0zm0 3zm5 2zm21-4zm1 7zm3-5zm3 7zm5-9zm5 6zm34-8zm12 10zm0-4zm6-3zm15-5zm4 1zm1-1zm-10 20zm-2 2zm-1-7zm-4 0zm-4 9zm-15-1zm-3-3zm-4-2zm-51-2zm-13-1zm-35 11zm-102-2zm-17-8zm-5-1zm-5 8zm-7-2zm-21 5zm-3-4zm-6 2zm0-3zm-23 20zm7-3zm1-2zm14-7zm10 12zm4-10zm2-1zm10 5zm7-5zm4 11zm0-11zm6 9zm9-5zm1 7zm4-5zm0-6zm2 6zm4 1zm202-3zm0 6zm7-7zm2 3zm4-6zm3 8zm4-5zm14 2zm32 18zm-3-9zm-1 11zm-11-8zm-29 5zm-9-6zm-6-2zm-6 9zm-2-3zm-190 2zm-3 0zm-2-7zm-4 8zm-9 3zm-3-5zm0 2zm-3-4zm-3 6zm-1-12zm-8 11zm-7 2zm-4-1zm0-12zm-1 2zm-1 2zm-3 8zm-1-3zm-1-5zm-1-4zm0 8zm-4-9zm-4 2zm-1 8zm-15 1zm-3 1zm-5 1zm-10 0zm-5-9zm-6 11zm9 0zm2 5zm3 6zm3 0zm10-3zm2-6zm1-2zm3 2zm8 9zm9-12zm2 5zm7 1zm1-4zm15 0zm0 10zm9 0zm3-1zm12-5zm2-4zm0 8zm211-3zm7 0zm13 2zm6-7zm8 21zm-9-2zm-11 1zm-4-2zm-3 3zm-9-5zm-3 1zm-15 3zm-5 3zm0-3zm-8 3zm-160-1zm-3-7zm-14-2zm-13 12zm-3-10zm-1-2zm-5 9zm-1-4zm-2 5zm-10-7zm-5-4zm-2 5zm-1 2zm-1 1zm-18-5zm0 8zm-3-8zm-3 8zm-3-6zm-6-1zm0 2zm-9 4zm-4-6zm-14 14zm17 3zm7 1zm4-3zm6-5zm6 14zm2-4zm9-7zm11 6zm17 5zm34-2zm8-7zm135 2zm2 0zm1-2zm4-2zm6 4zm1-2zm4 6zm1-10zm1 7zm11-4zm1-4zm2 1zm1 2zm11-2zm8 8zm8-5zm9 4zm-10 14zm-11 0zm-2 2zm-13 1zm-2-9zm-10-2zm-10 0zm-4 0zm-2 2zm-8-2zm-2 6zm-5 6zm-4-2zm-9-9zm-1 12zm-1-11zm-33 10zm-1-3zm-83-3zm-4-4zm0 7zm-12-3zm-2 0zm-1 8zm-6-9zm-2 2zm-1-2zm-6 4zm-15 1zm-11-9zm-10 11zm0-11zm-3 12zm-6-7zm-3 12zm9 0zm1 3zm4-4zm16 10zm2-12zm3 8zm3-3zm2-2zm2 1zm5-4zm3 1zm6 1zm6-1zm16 1zm8 3zm3 1zm15-3zm42 8zm0-3zm2 4zm5-3zm12-9zm0 3zm5 3zm2-4zm18-1zm2 9zm1-9zm3 11zm2-10zm25 2zm7-5zm3 12zm0-2zm3-3zm18-7zm2 3zm-11 16zm-17 3zm-11 2zm-4-3zm-1 4zm-1 2zm-4-7zm-3 2zm-10-3zm-8 5zm-6-7zm-1 7zm-5 0zm-4 1zm0-3zm-6 5zm-4-2zm-3 3zm-5-5zm-5-3zm-14 1zm-3-1zm-1-3zm-3-2zm-7 2zm-6 3zm-14-4zm-14 12zm-3-2zm-2 1zm-14-4zm-2-3zm-3 1zm-3 2zm-5 0zm-3-4zm-2 8zm-27 0zm-4-8zm-1-2zm13 13zm3 3zm15 5zm5 4zm3-1zm16-6zm3 3zm3-10zm4 4zm6 0zm3 2zm22 7zm5-4zm13 2zm2-11zm14 5zm18 4zm12-7zm21 5zm10-5zm149 7zm11 15zm-220-7zm-6 2zm-8 0zm-7 5zm-2-5zm-1 5zm-4-3zm-2-5zm-3 9zm-11-8zm-31 0zm-1 3zm-7-2zm239 25zm34 52zm-129 4zm70 27zm-77-5zm-102 18zm175-2zm4 0z" stroke="#DD9283" stroke-width="6.7" stroke-linecap="round" fill="none"/></g><path d="M472.4 619.7V811.7H718.6" fill="none" stroke="#000" stroke-width="1.8"/><text x="527.8" y="831.5" font-size="15.6" text-anchor="middle" fill="#000">−4</text><text x="587.4" y="831.5" font-size="15.6" text-anchor="middle" fill="#000">0</text><text x="647" y="831.5" font-size="15.6" text-anchor="middle" fill="#000">4</text><text x="706.6" y="831.5" font-size="15.6" text-anchor="middle" fill="#000">8</text><text x="463.4" y="663.9" font-size="15.6" text-anchor="end" fill="#000">5</text><text x="463.4" y="712.2" font-size="15.6" text-anchor="end" fill="#000">0</text><text x="463.4" y="760.6" font-size="15.6" text-anchor="end" fill="#000">−5</text><text x="463.4" y="808.9" font-size="15.6" text-anchor="end" fill="#000">−10</text><path d="M527.8 811.7v4.4M587.4 811.7v4.4M647 811.7v4.4M706.6 811.7v4.4M472.4 657.8h-4.6M472.4 706.1h-4.6M472.4 754.5h-4.6M472.4 802.8h-4.6" stroke="#000" stroke-width="1.8" fill="none"/><text x="594.3" y="854.1" font-size="18.8" text-anchor="middle" fill="#000">UMAP_1</text><text x="430.6" y="715.2" font-size="18.9" text-anchor="middle" fill="#000" transform="rotate(-90 430.6 715.2)">UMAP_2</text><text x="600.4" y="604.4" font-size="22" text-anchor="middle" fill="#000">Amy2a2</text><linearGradient id="cg1" x1="0" y1="0" x2="0" y2="1"><stop offset="0" stop-color="#FF1A0A"/><stop offset=".5" stop-color="#EC7C66"/><stop offset=".92" stop-color="#BEBEBE"/><stop offset="1" stop-color="#BEBEBE"/></linearGradient><rect x="736.9" y="668.3" width="20.8" height="105" fill="url(#cg1)"/><text x="766.5" y="690.7" font-size="16.3" text-anchor="start" fill="#000">4.0</text><text x="766.5" y="708.8" font-size="16.3" text-anchor="start" fill="#000">3.5</text><text x="766.5" y="726.5" font-size="16.3" text-anchor="start" fill="#000">3.0</text><text x="766.5" y="744" font-size="16.3" text-anchor="start" fill="#000">2.5</text><text x="766.5" y="761.4" font-size="16.3" text-anchor="start" fill="#000">2.0</text><path d="M736.9 684.9h4.2M757.7 684.9h-4.2M736.9 703h4.2M757.7 703h-4.2M736.9 720.7h4.2M757.7 720.7h-4.2M736.9 738.2h4.2M757.7 738.2h-4.2M736.9 755.6h4.2M757.7 755.6h-4.2" stroke="#fff" stroke-width=".7" fill="none"/><g transform="scale(.5)"><path d="M1791 1325zm12-2zm11-2zm-28 21zm-7-10zm32 27zm350 81zm-107 16zm33-6zm2-4zm5 17zm-42 9zm25 7zm6-5zm79 5zm-55 16zm-2 0zm-22-11zm-7 3zm-2-1zm-11 3zm5 20zm16-11zm3 10zm3-4zm3 3zm12-9zm20 4zm10 5zm6-6zm5 8zm6 10zm-5 3zm-24-8zm-14 2zm3 20zm2-6z" stroke="#F93B29" stroke-width="6.7" stroke-linecap="round" fill="none"/><path d="M1958 1312zm3-1zm47-7zm1 4zm-44 18zm-155 16zm12-6zm243 30zm-256 2zm-38 2zm-9 9zm23-4zm202 42zm110 19zm74 3zm-53 17zm-46-4zm-22 10zm14-3zm5 10zm62-7zm1 2zm23 2zm-9 15zm-6-4zm-45 0zm-21-4zm-5-1zm-4 20zm10-3zm6-2zm19-2zm17 9zm4 2zm36 4zm-8-2zm-3 13zm-15-12zm-10 12zm-1-9zm-1-4zm-12 3zm-10 0zm-1 10zm-15-13zm-28 9zm-90 17zm1 2zm125 0zm6-4zm1-3zm13-5zm2 5zm0 7zm16-13zm10 8zm-23 6zm-3 7zm-53-3zm-1 9zm-29-2zm-8 1zm-18-1zm-36-10zm-6 1zm29 12zm28 3zm12 14zm-128 9zm-15 9zm5-4zm54 2zm19-1zm-26 11zm-25 0zm-4-1z" stroke="#F25B47" stroke-width="6.7" stroke-linecap="round" fill="none"/><path d="M2169 1436zm5 6zm-96 43zm52 24zm-9 11zm-43-4zm-1 6zm41 12z" stroke="#FF1A0A" stroke-width="6.7" stroke-linecap="round" fill="none"/><path d="M2020 1259zm4 0zm11 1zm42 14zm-5-1zm-1-4zm-6 2zm-3-3zm-1 5zm-9 1zm-15-5zm-9 2zm-5-10zm-3 6zm-6 5zm-5-8zm-2 8zm-3-11zm-1 13zm-2-10zm-3-3zm-5 12zm-6-3zm-4-1zm0 4zm-3-2zm-5-5zm-3 3zm-1-2zm-6 3zm-1 3zm-1-2zm-15 3zm-30 13zm2-1zm2-5zm3 1zm1-2zm2 5zm1 1zm2-1zm4 0zm1-6zm1-5zm2 13zm9-10zm2 3zm5-4zm3 2zm3-1zm0 4zm5 3zm2-2zm6 4zm8-5zm3-5zm0 11zm3-12zm2 6zm1 2zm0-6zm3-2zm8 11zm2-3zm9-2zm19-3zm3-4zm6 9zm2-5zm2 4zm7-5zm6 11zm6-4zm1-7zm1-3zm2 8zm2-6zm1 2zm3-3zm2 10zm6-5zm2 4zm1-9zm3 11zm4-2zm9 2zm4 5zm-2 9zm-2-5zm-3-1zm-3 7zm-2-2zm-9-5zm-3 6zm-1-4zm-3-1zm-2-2zm-3 1zm-4 4zm-3 1zm-2 2zm0-8zm-7 3zm-1-6zm-6 0zm-12-1zm-4 8zm-3-6zm-1 5zm-1-3zm-3 7zm-6-2zm0-8zm-2 5zm-2-3zm-1 4zm0 3zm-8 3zm-1-10zm-1 3zm-3 1zm0-7zm-4 5zm-2-3zm0 8zm0-3zm-5 1zm-1-9zm-1 6zm-3 1zm0-3zm-2 5zm-4 3zm-2-2zm-3-9zm0 7zm-1-5zm-2 7zm-1-8zm-3 5zm0-5zm-3 3zm0 3zm-4-1zm-8-1zm-8 7zm-6-5zm-3-5zm-2 8zm-11-10zm-82 12zm-4-6zm-2 3zm-13-2zm-5-2zm-7 3zm-3 0zm-8 1zm-3 3zm-14 14zm6 0zm2-1zm2-8zm3 8zm2 1zm1-8zm2 3zm2-2zm3-5zm5 11zm0-3zm1-8zm1 8zm5 4zm2-3zm1-7zm0 2zm0-5zm2 1zm3 8zm4-2zm3-3zm0 2zm1 7zm5-9zm0-4zm0 8zm2 2zm2-9zm1 9zm2-6zm0-4zm0 2zm1 10zm2-3zm3 0zm1 3zm82-10zm9 12zm1-11zm3-2zm1 4zm2-5zm0 13zm8-10zm3-3zm2 11zm9-3zm2-2zm0 6zm3-3zm6-6zm2 2zm13 6zm6-1zm2-5zm2-1zm5 2zm0-4zm43 6zm0 6zm3-6zm7 5zm2-2zm3-6zm1 4zm0-7zm1 5zm2 4zm3-5zm2-4zm3 5zm1-4zm3 2zm3 4zm1-6zm2 7zm8 1zm1-11zm5 13zm1-4zm1-5zm8 10zm1-3zm0 13zm-1 2zm-1-5zm-2 6zm0-5zm0-5zm-2 6zm-3-2zm-6-6zm-4 9zm-2 2zm0-10zm-2 7zm-3-2zm-4 3zm-2-4zm-2-3zm-6 2zm0 8zm-10-7zm-2-3zm-6 1zm-1 2zm-3-3zm-26-3zm-11 8zm-5 6zm-23-13zm-9 0zm-5 5zm-5-1zm-3 6zm-1-8zm-2 10zm-2-8zm-3-2zm-1 9zm-1-7zm-3-3zm-6-1zm-90 2zm-2-2zm-1 3zm-1-3zm-2 1zm0 4zm-2 6zm-1-5zm-1-2zm-1-5zm-2 6zm-3 1zm-1-4zm-2 9zm-1-3zm-2-7zm-1 10zm-1-3zm-1 2zm-3-9zm-2 5zm0 3zm-2-2zm-5-2zm-2-1zm-1 5zm-1-3zm-1-2zm-1 6zm-2 3zm-7-7zm-1 3zm-1-4zm-2-1zm-6 5zm0-7zm-1-2zm-1 4zm0-2zm-2 4zm0-2zm-3-1zm-1-1zm-2 2zm-1-3zm-1-2zm-1 2zm-4-2zm-1 8zm-4 5zm-2-1zm-1-3zm-1 2zm-1-3zm0 6zm-11 6zm1-5zm3 11zm3-9zm1 7zm1-6zm0 5zm1-7zm2 8zm0-6zm0 8zm1-10zm1 7zm2-7zm1 5zm1 4zm1-6zm0 2zm2 2zm3 4zm6-7zm0-2zm1 9zm0-6zm1-5zm1 2zm0 3zm1 5zm1-4zm0-1zm3 7zm1-14zm3 4zm1-3zm0 10zm0-9zm2 0zm1 8zm0-2zm0-4zm2 6zm2-7zm1 5zm2 1zm5-5zm0 2zm2 0zm3-3zm5 11zm2-10zm0 7zm1-9zm0 7zm1 5zm0-10zm2 3zm0 2zm3-1zm2 3zm2-10zm0 3zm3-1zm0 2zm2 3zm2-8zm2 3zm0 9zm1-11zm3 9zm1-3zm3-5zm8 0zm86 0zm6-1zm26 11zm5-3zm9-2zm11 4zm6-6zm1-4zm2 2zm41 2zm3 1zm3-3zm2 6zm2-7zm0 4zm1 3zm2-1zm1-4zm2-3zm1 5zm4 0zm4 4zm2 4zm3-5zm4-4zm1-3zm1 10zm3-7zm2 3zm2-3zm9-4zm1 2zm3 9zm0-8zm4 1zm3 1zm1 2zm0-4zm-6 13zm-5 1zm-1-3zm-10 1zm0 6zm-3-2zm-2 6zm-6-6zm-3-2zm-7-2zm-1 6zm-3-7zm-3 1zm-1 9zm-4-6zm-2 8zm-2-11zm-7 7zm0-3zm-1-2zm-58-1zm-18 1zm-3-4zm-14 0zm-88 1zm-12 0zm0 13zm-3-10zm-5 0zm-7 7zm-1-9zm-2 10zm-10-11zm-1 3zm-3 1zm-1 3zm-2-6zm0 4zm0 7zm-1-2zm-1-2zm0-8zm-1 11zm-4 0zm-3-8zm-1 7zm-2 1zm0-8zm-5 0zm-1-3zm-3 1zm-3-1zm-2 5zm-2 8zm-3-4zm-2-3zm-1-2zm-1 6zm-1-9zm-3-2zm-2 6zm-2-5zm0 3zm-3 3zm-2-5zm-1 10zm0-4zm-3 4zm-2-7zm-2 5zm0-6zm-11 8zm-1-2zm-1-6zm-2 23zm2-10zm1-2zm6 8zm1-6zm1 7zm3-6zm1 4zm7 3zm1-9zm1 6zm4-4zm2-1zm2 7zm3-7zm0-1zm1 7zm6 3zm1-2zm2 2zm0-8zm2 8zm3 0zm8-10zm3 8zm3-9zm3 1zm0 8zm1-4zm1-5zm2 1zm2 5zm1-3zm1-1zm0 11zm4-5zm1 3zm2-3zm1-8zm1 2zm2 5zm9-4zm9 0zm9-2zm10 2zm160 8zm7-4zm12 3zm1-4zm3-6zm4 1zm4 11zm2-8zm1 8zm1-3zm2-8zm3 0zm3 11zm0-9zm3 10zm1-4zm0-10zm1 6zm3 5zm2-10zm1 12zm0-9zm13 8zm-9 3zm-4 4zm-3-1zm-3-3zm-12 12zm0-12zm-8 9zm-1-3zm-1 5zm-3 0zm-2-8zm-14 5zm-7 2zm-1 1zm-1-8zm-1 5zm-3 1zm-2-8zm-7 9zm-5 0zm-3-1zm-9-3zm-1 5zm-1-3zm-136-3zm-2-5zm-4 5zm-10 4zm-19-4zm-3 0zm-1 6zm-3-11zm-1 9zm-4-1zm-3-7zm-1 6zm-2-2zm-3-1zm0 4zm-1 2zm-2-9zm-8-2zm-3 10zm0-2zm-1 4zm0-8zm-4-1zm0 2zm-2-2zm-1 2zm-7 7zm0-2zm-3-7zm0 5zm-1 5zm-1-7zm0 4zm0-7zm-5 3zm-2-2zm-2-2zm0 5zm-6-6zm-2 1zm-1 3zm29 11zm2 10zm1-11zm0 7zm1 2zm9-9zm0 9zm1-6zm6 1zm1 6zm3-5zm5-3zm5 10zm1-2zm2 2zm2-11zm3 1zm2 7zm5-6zm1 4zm6 0zm3 0zm9 2zm0-3zm10-3zm2 6zm0 4zm3-9zm2-3zm2 4zm0 7zm4-8zm89 3zm3 5zm1-8zm6 1zm2-1zm3 7zm3-4zm9 5zm1-10zm15 4zm0 3zm0-9zm9 2zm0 7zm3-4zm1 3zm1-6zm2 3zm2 4zm2-3zm4-5zm2 12zm4-2zm3 2zm1-8zm2-2zm0 10zm2-7zm1 5zm1 2zm3-10zm1 4zm3-8zm1 11zm1-9zm2 1zm3 5zm0-3zm-12 10zm-4 4zm-6 5zm-1 3zm-2 0zm-1-7zm-1-4zm-1 11zm-4-1zm-4-3zm-3 2zm-3-10zm-1 3zm-3 2zm-2 5zm-1-4zm-2 3zm0-7zm0 2zm-5 7zm-4-8zm-2 8zm0-2zm-5-7zm0 6zm-6-2zm-4 2zm-11-1zm-2 6zm-1-5zm0-7zm-1 10zm-1-8zm-1 8zm-1-4zm-1 2zm-1 3zm-1-13zm0 7zm-2-2zm-1-3zm-4 11zm-2 0zm-1-13zm-8 11zm-1-7zm-2-3zm-9 2zm-5 3zm-10 6zm-24-2zm-1-2zm-3 2zm-2 3zm-1-7zm-1 3zm-2-7zm-3-2zm-7 5zm-9 0zm0 4zm-4 5zm-3-3zm-4 1zm-2-3zm-3-4zm-5 1zm-3-2zm-3 9zm-1-4zm-5 0zm-4 0zm0 4zm-3-5zm0-5zm-3 6zm-5-8zm0 5zm-2 4zm-5-6zm-1-3zm-3 1zm-8 6zm0-7zm-2 9zm-2-8zm-5 7zm-1 5zm-3-5zm4 7zm4-1zm9 4zm5 1zm4 7zm1-11zm1 7zm1-4zm3-3zm3 1zm1-2zm2 2zm3 9zm0-9zm3-1zm9 7zm1-2zm1-4zm3 8zm0-7zm3-3zm1 12zm2-10zm4 0zm3 2zm2 6zm3-4zm1-2zm1-3zm2 4zm0-6zm2 2zm1 2zm1 8zm1 2zm3-1zm0-8zm2 6zm5 2zm4-3zm7 3zm1-13zm0 11zm7-6zm4-1zm1 2zm1 4zm1-6zm3 7zm6-1zm3-5zm0-3zm7 7zm2 2zm3-2zm2-2zm11 1zm2-4zm2-3zm2 11zm3-6zm6 5zm0-7zm7 5zm5-1zm1 3zm0-7zm1 4zm3 4zm4-7zm1 8zm3-1zm2-11zm2 5zm6-2zm2-4zm3 4zm5 0zm6 8zm9-4zm5 0zm2-7zm4 0zm0 3zm3-1zm3-1zm140 21zm-2-3zm-1 3zm-2 1zm-4-1zm-86 5zm-97-12zm0 3zm-4-2zm-9 0zm-13 7zm-6-9zm-5 1zm-3-1zm0 8zm-2-2zm-3 4zm-2-7zm-1 7zm0-10zm-1 6zm-1-3zm-7-1zm-4 9zm-3-4zm-1-5zm-3 7zm-7-9zm-3 10zm0-2zm-3 1zm0-3zm-4-7zm-3 4zm-3 5zm-1 5zm-11-6zm-1-6zm0 8zm0 4zm-10-2zm-1-3zm-2-6zm-15 2zm-2 4zm0-4zm-3 9zm-5-2zm-9-11zm-1 6zm-3-3zm-1 4zm-1 2zm-2-2zm-1-3zm-3 3zm-15-7zm26 14zm6 0zm3 2zm2-2zm2 3zm13-3zm2 2zm5 6zm6-2zm3 0zm9-5zm6 4zm6-4zm0 5zm2-2zm1 2zm6 4zm0-7zm3-3zm5 5zm1 3zm1-8zm5 2zm2 3zm3-3zm8 3zm1-6zm1 2zm5-2zm1 4zm7-3zm53 3zm3 9zm2-1zm9-7zm33 8zm12 0zm14-1zm3 1zm3-6zm16-4zm9 4zm7-1zm21 2zm6-1zm10 5zm6-1zm2 15zm-1 2zm-18-5zm-14 0zm-2-5zm-10 0zm-17 1zm-23-3zm-12 0zm-9 7zm16 17zm2-7zm21 8zm36-2zm0 2zm4-12zm7 10zm3-2zm27 0zm-4 6zm-1 3zm-4 10zm-1-9zm-3 6zm-2-6zm-4 3zm-7 3zm-7-1zm-26 4zm-8-9zm-1-2zm-2 5zm-3 4zm-5-3zm-7-2zm-9 1zm-15 0zm-3-5zm-20 2zm-139 4zm-14 1zm-1 11zm6 3zm5-8zm18 3zm130 7zm4 2zm2-3zm41-2zm4-8zm12 7zm28-5zm2 5zm3 0zm3-2zm19 1zm0-5zm4 6zm-27 11zm-10 0zm-7 8zm-7 0zm-8-6zm-5-2zm-4-4zm-6 1zm-28 0zm-10 10zm-3 0zm0 2zm-15-1zm-9-7zm-13 5zm-22 2zm-18-3zm-12 1zm-40-3zm-19 3zm-1-3zm-2 6zm-3-4zm-3-3zm-1 2zm-12-1zm-13 2zm-4 1zm-1-2zm-3 13zm3-1zm3 5zm1-7zm0-4zm1 5zm1-6zm4 9zm1-8zm0 9zm23-6zm55 8zm4-1zm0-9zm2 3zm6 7zm40-2zm31-5zm2 1zm1-3zm11 4zm12 4zm1-4zm5 6zm1-11zm27 4zm6-3zm2 2zm5-3zm1 8zm17-7zm-52 12zm-11 2zm-1-2zm-3 1zm-18 1zm-32 10zm-6-8zm-7 2zm-1 4zm-14-10zm-3 12zm-6-11zm-5 5zm-6-3zm-4-3zm-1 1zm-6-2zm-2 11zm-3 2zm-1-12zm-43 0zm-1 3zm-4 4zm-2-3zm-20 8zm-7-13zm4 24zm2-1zm2-8zm2 5zm6 0zm0 6zm2-5zm5 5zm5-2zm6 1zm4-6zm1 6zm3-6zm5 3zm7 2zm4 3zm22-3zm2-5zm0-3zm11 2zm14 2zm7-3zm7 5zm16-5zm1 8zm8-11zm2 4zm3-3zm10 4zm7-1zm20 10zm1-5zm0 3zm12 1zm2 0zm4 3zm-1 2zm-1-2zm-3 4zm-1-4zm-4 5zm-1 0zm-4 2zm-1-4zm-2 2zm-1-3zm-75 0zm-14 0zm-6 2zm-8 4zm-3-5zm-2-3zm-3 1zm-10 5zm-3-1zm-3 3zm-1 3zm0-11zm-9 8zm-1-9zm-2 11zm-5-3zm-8 1zm-1-9zm-5 7zm-2-2zm0 4zm-4 2zm-5-3zm-2-5zm0 7zm-1-9zm-9 3zm-5-5zm9 16zm2 3zm1 8zm3 1zm3-14zm1 12zm2-6zm2-2zm0 5zm0 3zm1-6zm2 5zm5-6zm2 9zm2 0zm3-4zm4-1zm13 0zm5-1zm0-7zm6 4zm0 4zm0-7zm2 12zm4-3zm1-9zm3-1zm3 9zm3-6zm0 2zm-41 12zm-23-3z" stroke="#BEBEBE" stroke-width="6.7" stroke-linecap="round" fill="none"/><path d="M1834 1304zm109 4zm11 3zm8-6zm113-2zm18 18zm-105 1zm-18-4zm-1 3zm-183 16zm2 3zm33-5zm139-4zm9 1zm-168 26zm-18-8zm-8 7zm41 8zm4 2zm-32 11zm-18 3zm34 5zm13 22zm126 17zm164 16zm-284-8zm183 13zm50 5zm11 0zm51-3zm34 1zm-7 21zm-42-14zm-3 10zm-30-8zm2 13zm4 0zm40 9zm18-2zm8-2zm5 1zm2 6zm7-11zm17 9zm-39 13zm-9-8zm-6-2zm-6 0zm-1 10zm-15-3zm-17 4zm-15 2zm-12-1zm-172-4zm166 18zm25 1zm19-10zm2 4zm16 4zm7 0zm38-2zm2 3zm0 4zm-6 8zm-5 1zm-21-7zm-4 1zm-16 5zm-13 0zm-68-6zm-71 18zm3-2zm46-1zm0 5zm72 3zm26-7zm35-3zm-66 12zm-70 10zm-50 2zm-69 9zm53-2zm75-1zm1 3zm-83 17zm-18-8zm4 14zm13-2zm0 2zm26 0zm-46 15z" stroke="#EC7C66" stroke-width="6.7" stroke-linecap="round" fill="none"/><path d="M2043 1286zm-48 23zm-183-7zm286 19zm-46 29zm-218 1zm-52 1zm-1 5zm-16-4zm170 64zm84 6zm-72 17zm58 16zm74-1zm-9 7zm-5 6zm-174 15zm185-6zm24 2zm5-3zm8 6zm14-3zm1-5zm22 2zm-4 8zm-3 8zm-55-6zm-185 19zm3-1zm131 5zm46-9zm13 6zm16 4zm47 0zm-8 3zm-12 9zm-10 3zm0-5zm-10 2zm-45-9zm-1 5zm0-2zm-7-4zm-10 1zm-34 12zm-2-10zm-74 0zm-42 15zm69 8zm62-2zm26-8zm3 4zm60-6zm-122 14zm-50 17zm22 5zm12-6zm35 8zm-47 7zm-22 1zm-34 8zm-6-1zm-24-11zm-14 15zm39 9zm7-2zm3-3zm7 4zm17-7z" stroke="#DD9283" stroke-width="6.7" stroke-linecap="round" fill="none"/><path d="M1932 1287zm136-1zm-257 11zm-7 2zm17 14zm13 3zm153-10zm16 4zm110 16zm-136-7zm-13 4zm-7 3zm-181-2zm1 7zm35 19zm-5-1zm-13 6zm-25 1zm-17 7zm70-4zm-46 17zm74 24zm2-6zm205 2zm-100 26zm142 15zm2-2zm75 1zm2 3zm-13 5zm-9 0zm-1-2zm-36 11zm-26 3zm-75-2zm33 5zm9 5zm40 0zm7 0zm11-5zm3 6zm31 0zm-52 11zm-8 4zm-2 2zm-12-7zm-22-3zm-3 15zm7 2zm9 8zm2-9zm23 7zm10-4zm11 4zm40-8zm13 1zm-17 18zm-1 5zm-39-11zm-1 12zm-4-8zm-4-5zm-1 2zm-12 11zm-18-8zm-5-1zm-64 18zm25 1zm3-8zm36 0zm8 8zm9-6zm2-3zm19 11zm21-3zm1-2zm21-1zm-26 11zm-5 1zm-6-1zm-42 2zm-16 2zm-6 1zm-35-4zm-17 7zm-101-3zm58 10zm28 7zm29-2zm21 13zm-113 5zm-1-7zm-38 21zm12-4zm39 3zm21-10zm-56 26zm8 1z" stroke="#F25B47" stroke-width="6.7" stroke-linecap="round" fill="none"/><path d="M2157 1440zm5 30zm-15-13zm-88 0zm-7 10zm13 27zm20-8zm57 3zm16 0zm-29 10zm-60 6zm-30-5zm109 16zm5 8z" stroke="#FF1A0A" stroke-width="6.7" stroke-linecap="round" fill="none"/><path d="M1953 1272zm2 2zm2-2zm1-2zm4 2zm3-4zm17-3zm5 8zm0-5zm3-2zm5 1zm1-3zm4 2zm4 1zm5-7zm2 13zm1-11zm4 2zm2 0zm2 7zm1-7zm2 3zm2-1zm2-6zm4 8zm0-4zm3 6zm1-7zm3 10zm6-12zm6 5zm2 5zm14-2zm16 4zm23 14zm-2-5zm-3-3zm-2 4zm0 3zm-1-6zm-5 6zm-2-10zm-8 1zm-1 8zm-3 2zm-2-11zm-2 2zm-7-1zm-5 0zm-1 10zm-1-13zm-4 8zm-9 5zm-1-8zm-7-1zm0 6zm-3 2zm-5-11zm-1 5zm-11 0zm-2 7zm-2-9zm0 5zm-2-7zm-5 1zm-2 9zm-1-5zm-1-3zm-6 5zm0-8zm-1 6zm-2-4zm-10 7zm-3 1zm0-9zm-3 4zm-9 1zm-3-6zm-5 0zm-3 0zm-3 4zm-6-3zm-3 9zm-2 2zm-3-12zm-2 3zm-2-2zm-1 5zm-6-1zm-7 6zm-2-2zm-123 17zm14-7zm5 6zm11 1zm1-1zm7 0zm1 1zm87-10zm12 1zm10 4zm1-8zm1 3zm2 8zm1-8zm2-1zm1 10zm4-10zm1 7zm16-5zm3-1zm4 0zm0 3zm5 2zm5-8zm4 2zm4 9zm0-5zm6 2zm2-4zm2 7zm2-5zm3 7zm6-9zm1 5zm4 1zm8-5zm25-3zm6 12zm6 0zm0-2zm0-4zm3 5zm2-3zm2-5zm9 6zm6-11zm3 1zm0 3zm1-4zm1 8zm3-4zm3 5zm8 18zm-2-4zm-2 2zm-1-5zm-4-4zm0 4zm-5-3zm-1 7zm-5 3zm-5-7zm-1 2zm-2-7zm-3 0zm-2 7zm-11-5zm-2 4zm-1 2zm-3-3zm-1 3zm-3-3zm-4-2zm-2 8zm-38-10zm-11 0zm-4 7zm-6 3zm-3-11zm-9 11zm-4-5zm0-4zm-2 9zm-7-7zm-2 3zm0-6zm-1 10zm-2 1zm0-12zm-3 11zm-3-11zm-2 11zm-1-12zm-7 3zm-3 7zm-2-1zm-6 4zm-83-3zm-13-3zm0 4zm-1-8zm-1 2zm-1 9zm-1-12zm-3 10zm-1-9zm0-2zm-1 1zm-5 7zm-2-7zm-1 1zm-1 5zm-3-1zm0 6zm-4-4zm0 2zm-3 2zm0-2zm-1-4zm-1-1zm-4 6zm-3-4zm-3 3zm-2 1zm-3-4zm-6 2zm0-3zm-2-2zm-2 5zm-2 2zm-1-2zm-16 17zm0-1zm7-7zm0 6zm0-1zm4-1zm9-6zm0 5zm2 2zm4-9zm4 12zm0-6zm1-2zm1-4zm0 12zm4-12zm0 2zm2 5zm0-6zm1 12zm1-13zm1 4zm3-4zm4 6zm3 5zm2-2zm1-3zm2-5zm0-1zm3 12zm0-11zm1 4zm1 6zm4-4zm0 3zm6 0zm3-5zm0 4zm1 3zm2-2zm0-6zm2 3zm0-6zm1 6zm1 0zm2-6zm2 7zm4-3zm2 2zm0-2zm101-5zm8 6zm5 1zm4 1zm6-3zm2 2zm27 4zm43-6zm0 6zm6-11zm1 12zm0-8zm0 4zm3-1zm3-6zm3 8zm1-9zm3 4zm1 4zm6-9zm1 10zm5 3zm1-6zm13-1zm2 1zm17 18zm-3-9zm-1 11zm-11-8zm-1-3zm-5 10zm-1-2zm-1-8zm-3 2zm-12 9zm-6-3zm0-7zm-3 8zm-6-7zm-1 9zm-5-11zm-1 9zm-4 0zm-3-3zm-36-7zm-9 3zm-1 9zm-1-1zm-11 1zm-9-2zm-4-7zm-5 3zm-10 3zm-2-7zm-3 1zm0 7zm-1-4zm-2-3zm-3 3zm-88-1zm-4 4zm0-5zm-3 5zm-1 3zm-1-10zm-3 7zm-2 1zm-3-2zm-4-3zm-1 8zm-3-2zm-1-3zm0 2zm-2 1zm-1-5zm-3 6zm-1-12zm-2 12zm-1-12zm-1 10zm-1-4zm-3 5zm0-4zm-6 2zm-1 4zm-1-2zm-1-3zm-1 4zm-1-12zm-1 2zm-1 2zm-2-4zm0 4zm-1 8zm-1-3zm-2-9zm0 8zm-1 4zm0-8zm-4 4zm-3-7zm-1 8zm0-7zm-2 2zm0-2zm-1 5zm-2-4zm-3 5zm-7-7zm0 9zm-1-2zm-1-2zm-1 5zm-1 0zm0 2zm-4-1zm-6-6zm-2 5zm0-6zm-2 7zm-1-7zm-4-2zm-2 6zm-2-4zm-5 19zm3-10zm9 6zm2 4zm2-11zm6 9zm1-4zm7 4zm2-6zm1-2zm1 3zm1 8zm1-9zm0 3zm1 3zm1-4zm1 8zm2-3zm3 2zm5 0zm2-1zm0-7zm2-4zm0 7zm3 0zm2 0zm3 2zm0-1zm1-2zm2-4zm1 11zm1-6zm1-5zm1 4zm3 4zm5 0zm2 0zm0-8zm0 10zm1-4zm7-2zm1 6zm2-10zm2 9zm11-5zm2-4zm0 8zm5 0zm4 1zm9-6zm106-5zm3 2zm12 4zm6-2zm9-4zm42 11zm13-3zm3-1zm0 4zm2-7zm4 3zm2 2zm1-6zm3 10zm1-7zm2 2zm3-6zm1 7zm7-7zm0 3zm3 9zm0-10zm4 9zm13-7zm-13 17zm-9-2zm-6-3zm-5 4zm-1-6zm-3 4zm-2 3zm-3-6zm-5-2zm-2 3zm-3 1zm-6-2zm-5 2zm0 5zm-1 1zm0 3zm-2-6zm-3-3zm-3 6zm0-3zm-8 3zm-4 2zm-155-3zm-4-7zm-5 1zm-8-3zm-4-1zm-9 13zm-4-10zm-1-2zm-5 9zm-1-4zm0-4zm-1 11zm-1-2zm-4-11zm-4 10zm-2-6zm-4-4zm-3 5zm0 2zm-1-7zm-1 8zm0 2zm-1-4zm-4 6zm-2-4zm-6 0zm-4-5zm-7 3zm0 5zm-1-11zm-2 5zm-1-4zm-3 0zm-1 3zm-1 2zm0-5zm-1 10zm-5-1zm-1-7zm-2 7zm-3-4zm-1-2zm0 10zm-1-2zm-2 2zm-3-6zm-1 6zm-5-12zm-1 16zm0 1zm1-4zm12 4zm4 2zm3-6zm3 7zm4-3zm1-2zm2 2zm3-5zm1 8zm1-5zm0 7zm2-9zm3 13zm1-4zm5 3zm4-13zm2 6zm9-3zm0 6zm3 5zm1-3zm10-3zm3-7zm0 13zm2-4zm5-8zm4 4zm24 6zm1-9zm6 2zm7-5zm1 8zm114 5zm5-1zm0-3zm8-2zm3 0zm0-2zm3 2zm1-4zm2 4zm4 0zm1-2zm4 6zm1-10zm1 7zm5-7zm6 7zm0-4zm1 10zm0-14zm2 7zm1-6zm0 2zm5 5zm6-7zm8 8zm5-8zm3 3zm9 7zm1-3zm3-1zm3 3zm2-10zm-19 22zm-1-6zm-2-2zm-1 12zm-1-10zm-3 7zm-3-1zm-7 1zm-5-1zm0-7zm-2 10zm-3-9zm-10-2zm-5 11zm-5-11zm-4 0zm-2 2zm-1 2zm-2 9zm-3-4zm-2-9zm-1 6zm-3-2zm-3 8zm-3-2zm-9-6zm-1-3zm-1 12zm-1-11zm-1 8zm-4-1zm-2-7zm-26 10zm-1-3zm-3 2zm-65-9zm-5 10zm-2-9zm-6 6zm-1-7zm-1 4zm-2 2zm-1 5zm-1-11zm0 7zm-1-4zm-1 6zm-2-2zm-7-3zm-1 7zm-2-7zm-6-3zm-1 2zm-2 2zm0-2zm-6 8zm-1-4zm-1-6zm-4 7zm-2-5zm-2 3zm-4-8zm-2 10zm-9 3zm-1-12zm-2 8zm-1 3zm-8 0zm0-11zm-1 3zm-2 9zm-2-10zm-3 6zm-1-3zm-2 12zm4 2zm3-5zm1 3zm1 3zm4-4zm4 1zm3 6zm0 3zm3-6zm1-3zm3 3zm3 6zm1-12zm1 11zm1-4zm1 1zm3-8zm0 5zm1 5zm1-7zm3 1zm2-3zm1 2zm1-3zm2 10zm2-9zm0 3zm2 7zm4-9zm5-1zm0 9zm2-8zm11 11zm3-11zm2 7zm0-3zm6-4zm0 3zm1 4zm1 3zm1-6zm6-6zm5 12zm1-5zm3-4zm4 4zm30 6zm8-2zm1-3zm1-5zm1 9zm0-3zm4 0zm2-5zm0-4zm10 0zm0 3zm1 7zm2-8zm2 4zm2-4zm4-3zm7 2zm7 0zm2 9zm2-9zm2 11zm0-8zm2-2zm6-2zm1 3zm18 1zm7 8zm1-13zm2 12zm0-2zm3-3zm18-7zm2 3zm2 4zm-13 12zm-9-4zm-6 4zm-1 6zm-1-3zm-2 1zm-7-4zm-1 3zm-1 2zm-2 2zm-1-7zm-1 2zm-1 4zm-1 2zm0-5zm-3-2zm-3 2zm-4-2zm-2 4zm-5-9zm0 4zm-2 3zm-6 2zm-6-7zm-1 7zm-3-8zm-2 8zm-3 3zm-1-2zm-3-6zm-2 3zm-1 5zm-3-2zm-3-10zm-1 13zm-5-5zm-5-3zm-1-5zm-5 0zm-8 6zm-3-1zm-1-3zm0 10zm-3-12zm0 4zm-3-3zm-2 11zm-1-7zm0 3zm-1-6zm-5 2zm-1 1zm-3-2zm-5 0zm-6-2zm-1 8zm-2-2zm-5 0zm-4-2zm-2 8zm-3-2zm-2 1zm0-2zm-2-1zm-5 3zm-1-2zm-1-4zm-5 2zm-1-3zm-4 1zm-3 2zm-1-8zm-4 8zm-3-4zm-2 8zm-4-4zm-3 1zm-1-3zm-11-2zm-3 4zm-1 4zm-4 0zm-2-12zm-1 7zm-1-3zm-1-2zm-4 1zm17 12zm2 5zm1-2zm14-3zm1 8zm0 4zm3-2zm2 2zm3-1zm7-2zm0-10zm3 0zm6 6zm1-5zm3 8zm0-3zm2-7zm1 5zm2 1zm0 3zm1-5zm1 8zm1-5zm3-1zm1-2zm3 2zm2 5zm1 3zm1-6zm9-6zm4 6zm3-6zm2 11zm1-12zm4 8zm1-3zm6-1zm2 5zm1 3zm2-10zm1 8zm2-11zm2 4zm5-2zm7 3zm3 4zm0-4zm15 4zm2 3zm3-1zm2-8zm5-1zm10 4zm11 1zm4 0zm6-5zm7-1zm143 8zm15 5zm6-2zm2-3zm1 4zm0 3zm-8 1zm-3 5zm-2-5zm-1 7zm-11-8zm-13 7zm-2-6zm0 7zm0-3zm-39 5zm-73-9zm0 2zm-1 8zm-1-4zm-2 4zm-3 0zm-12-1zm-56-11zm-1 3zm-5-1zm-7 2zm-7 0zm-8 5zm-2-5zm-1 5zm-4-3zm-1-5zm-1 7zm-2 2zm-12-8zm-9 4zm-4-5zm-4 6zm-6-2zm-9 0zm-2-4zm-2 3zm-3-1zm-11-2zm219 16zm4 6zm2-5zm12-5zm9 3zm2 5zm4 1zm26-1zm1 5zm8-7zm17-1zm10-4zm16 17zm-9 3zm-2-2zm-4 8zm-7-12zm-1 3zm-8 2zm-1-2zm-27 3zm-6 3zm-5 2zm-1-4zm-2 1zm-7-8zm-5 0zm-5 11zm-14-8zm-55 0zm-124 21zm10-4zm123 2zm63 2zm7-8zm7 6zm1-8zm17 6zm10 3zm6 2zm8-1zm8 1zm5-7zm1-4zm9 1zm-4 17zm-25 6zm-1-3zm-8 5zm-9-5zm-6-2zm-16-2zm0 10zm-9-10zm-33 8zm-6-3zm-3-1zm-8 5zm-104-2zm-28-1zm-16 1zm-21 13zm0 1zm1-4zm1 5zm2-3zm4 1zm15-9zm7 2zm2 9zm1-6zm1-5zm3 12zm50-1zm31-1zm20-7zm2 2zm1-3zm2 9zm11 0zm4-5zm3 1zm11-5zm13 5zm2-7zm26 5zm17-4zm12 10zm10-10zm6 9zm1 0zm4-1zm4-4zm9 2zm6 6zm-15 2zm-12 3zm-17-4zm-2 7zm-4 0zm-22 4zm-3-9zm-2 5zm-14 1zm-15 5zm-11-7zm-2 2zm-20 2zm-3-2zm0 4zm-10-12zm-3 7zm-44 4zm-1-4zm-51-7zm0 7zm-2 2zm-5-4zm-14-3zm-1 6zm-1-2zm-2-4zm-2-1zm-2 11zm-1-2zm-2-5zm32 9zm34 12zm17-11zm4 7zm8 3zm2-11zm11 8zm3 1zm7-6zm4 7zm2-2zm11-1zm6-6zm5 4zm2 2zm1-2zm34-3zm3 3zm2-3zm13 11zm9-6zm-8 17zm-3 0zm-1 0zm-5 3zm-5-1zm-2 1zm-27-7zm-3 5zm-2-7zm0 8zm0-2zm-11-10zm-15 5zm-5 6zm-5-4zm-18-6zm-20-1zm0 4zm-6 4zm-17 4zm-4-10zm-8 7zm-2 2zm-4-1zm-8 1zm-5-3zm-3-4zm-1 5zm0 3zm-8-1zm-3-2zm-1-2zm-2-5zm-2 11zm-3-6zm4 8zm4 8zm4-8zm0 10zm12-1zm1 2zm0-5zm7-1zm4 3zm2-10zm2 9zm2-4zm8 2zm1-6zm4 11zm1 2zm36-10zm2-1zm6 4zm4-3zm4-4zm76 7zm3-5zm3 5zm1-5zm4 1zm2 1zm1 4zm2-2zm1-2zm-125 17zm-2-3zm-1 3zm-5-7zm-2 11zm-8-5zm-5 6zm-2-6zm-1-3zm0 9zm-4 0zm-1-5zm-1 4zm-4-7zm-3 2zm-2-5zm-1 11zm-2-3zm-2-9zm-1 13zm-2-6zm-1-6zm-6 9zm-2-1zm-1-2zm-5-6zm-3 6zm29 7zm7 3zm4-1zm10-2z" stroke="#BEBEBE" stroke-width="6.7" stroke-linecap="round" fill="none"/><path d="M1973 1313zm18 0zm-28 17zm-139 8zm-20 37zm291 59zm75 8zm-37 14zm-20-11zm-58 8zm5 13zm14 3zm20-11zm17 10zm12-2zm21-2zm-19 11zm-3 2zm-1-3zm-4 9zm-8-6zm-1-2zm-56 18zm1-3zm27 2zm12-7zm5 2zm10 10zm3-2zm25-4zm15-4zm10 5zm3 11zm-3 0zm-19 4zm-6-9zm-17 3zm-1 10zm-42-3zm-14-7zm-1 6zm-155 15zm166-2zm5-6zm29 3zm34 2zm16-1zm-44 13zm-15-1zm-3-2zm-116 38z" stroke="#F93B29" stroke-width="6.7" stroke-linecap="round" fill="none"/><path d="M1822 1301zm179 1zm-188 10zm-9 18zm20 13zm-9 9zm-43 4zm-10-1zm33 14zm5 11zm84 13zm109 3zm-46 12zm-2 24zm98 20zm-27 0zm-157-7zm217 19zm12-7zm7 4zm1-2zm14 1zm10 7zm13 1zm19-1zm-15 6zm-27-2zm-5-1zm-44 12zm-4 10zm17-7zm3 12zm12-9zm33 0zm16 4zm12 3zm-41 7zm-25 8zm-10-5zm-12 1zm-72 16zm80-8zm27 7zm9-8zm23 2zm25 1zm-14 12zm-73 6zm-9-1zm-77 5zm35 8zm-2 15zm-14 1zm-36 1zm-3 1zm-3-3zm-7 4zm-15-6zm-63 16zm36-6zm41 7zm11-8zm-22 15z" stroke="#DD9283" stroke-width="6.7" stroke-linecap="round" fill="none"/><path d="M2092 1278zm-10 19zm-276 5zm162 10zm12-1zm1-4zm96 5zm-114 15zm-5-4zm-138-3zm-31-3zm-12 5zm11 20zm10-4zm5-3zm6 0zm286 17zm-14-6zm-270-1zm-4 2zm-22 6zm-12 5zm-6-8zm-3-5zm28 16zm11 6zm-6 6zm212 50zm173 11zm-182 22zm60-6zm37-4zm44 14zm-12 7zm-11 0zm-5-9zm-3 8zm-4 0zm-3 2zm0 2zm-13-10zm-7 0zm-12 5zm-4-5zm-13 10zm15 5zm0 3zm28-2zm1 5zm4 2zm21-3zm3 2zm5-8zm0 9zm20-11zm5 9zm11-7zm3 2zm3 2zm-30 10zm-3 9zm-1-7zm-34 4zm-1-8zm-10-1zm-12 7zm-26-3zm-166-3zm164 12zm7 5zm3-2zm6 6zm11 4zm33 0zm8-5zm3 0zm1 2zm21-4zm6 7zm11-11zm-7 16zm-3-3zm-4 12zm-6-12zm-3 1zm-10 11zm-14-3zm-1 2zm-8-6zm-11 8zm-19-13zm-3 7zm-187-3zm14 18zm42 4zm13-2zm74-10zm18 9zm14 2zm42-7zm2 1zm7 2zm0-2zm22-5zm8 0zm-89 17zm-66 7zm-60 5zm27 2zm30 1zm25 1zm11 8zm5-13zm-120 26zm8 11zm30-10z" stroke="#EC7C66" stroke-width="6.7" stroke-linecap="round" fill="none"/></g><path d="M864.5 619.7V811.7H1110.7" fill="none" stroke="#000" stroke-width="1.8"/><text x="919.9" y="831.5" font-size="15.6" text-anchor="middle" fill="#000">−4</text><text x="979.5" y="831.5" font-size="15.6" text-anchor="middle" fill="#000">0</text><text x="1039.1" y="831.5" font-size="15.6" text-anchor="middle" fill="#000">4</text><text x="1098.7" y="831.5" font-size="15.6" text-anchor="middle" fill="#000">8</text><text x="855.5" y="663.9" font-size="15.6" text-anchor="end" fill="#000">5</text><text x="855.5" y="712.2" font-size="15.6" text-anchor="end" fill="#000">0</text><text x="855.5" y="760.6" font-size="15.6" text-anchor="end" fill="#000">−5</text><text x="855.5" y="808.9" font-size="15.6" text-anchor="end" fill="#000">−10</text><path d="M919.9 811.7v4.4M979.5 811.7v4.4M1039.1 811.7v4.4M1098.7 811.7v4.4M864.5 657.8h-4.6M864.5 706.1h-4.6M864.5 754.5h-4.6M864.5 802.8h-4.6" stroke="#000" stroke-width="1.8" fill="none"/><text x="986.4" y="854.1" font-size="18.8" text-anchor="middle" fill="#000">UMAP_1</text><text x="822.7" y="715.2" font-size="18.9" text-anchor="middle" fill="#000" transform="rotate(-90 822.7 715.2)">UMAP_2</text><text x="989" y="604.4" font-size="22" text-anchor="middle" fill="#000">Sox9</text><linearGradient id="cg2" x1="0" y1="0" x2="0" y2="1"><stop offset="0" stop-color="#FF1A0A"/><stop offset=".5" stop-color="#EC7C66"/><stop offset=".92" stop-color="#BEBEBE"/><stop offset="1" stop-color="#BEBEBE"/></linearGradient><rect x="1129" y="668.3" width="20.8" height="105" fill="url(#cg2)"/><text x="1158.6" y="674.9" font-size="16.3" text-anchor="start" fill="#000">3.5</text><text x="1158.6" y="693.2" font-size="16.3" text-anchor="start" fill="#000">3.0</text><text x="1158.6" y="711.3" font-size="16.3" text-anchor="start" fill="#000">2.5</text><text x="1158.6" y="729.8" font-size="16.3" text-anchor="start" fill="#000">2.0</text><text x="1158.6" y="748.1" font-size="16.3" text-anchor="start" fill="#000">1.5</text><text x="1158.6" y="766.3" font-size="16.3" text-anchor="start" fill="#000">1.0</text><path d="M1129 669.1h4.2M1149.8 669.1h-4.2M1129 687.4h4.2M1149.8 687.4h-4.2M1129 705.5h4.2M1149.8 705.5h-4.2M1129 724h4.2M1149.8 724h-4.2M1129 742.3h4.2M1149.8 742.3h-4.2M1129 760.5h4.2M1149.8 760.5h-4.2" stroke="#fff" stroke-width=".7" fill="none"/><g transform="scale(.5)"><path d="M2860 1477zm-172 28z" stroke="#FF1A0A" stroke-width="6.7" stroke-linecap="round" fill="none"/><path d="M2804 1259zm5 0zm11 1zm41 14zm-4-1zm-2-4zm-5 2zm-3-3zm-1 5zm-24-4zm-9 2zm-6-10zm-3 6zm-6 5zm-4-8zm-3 8zm-2-11zm-2 13zm-1-10zm-3-3zm-5 12zm-7-3zm-4-1zm0 4zm-3-2zm-5-5zm-2 3zm-1-2zm-6 3zm-1 3zm-2-2zm-14 3zm-31 13zm2-1zm3-5zm2 1zm1-2zm2 5zm2 1zm2-1zm3 0zm2-6zm3 8zm8-10zm3 3zm4-4zm3 2zm4-1zm0 4zm4 3zm2-2zm7 4zm8-5zm2-5zm1 11zm2-12zm2 6zm1 2zm1-6zm3-2zm7 11zm3-3zm9-2zm18-3zm4-4zm6 9zm1 3zm1-8zm2 4zm7-5zm5 11zm7-4zm0-7zm2-3zm1 8zm3-6zm6 9zm5-5zm2 4zm1-9zm4 11zm3-2zm9 2zm5 5zm-2 9zm-3-5zm-2-1zm-3 7zm-2-2zm-12 1zm-2-4zm-3-1zm-1-2zm-4 1zm-3 4zm-4 1zm-1 2zm-1-8zm-7 3zm0-6zm-7 0zm-12-1zm-3 8zm-4-6zm-1 5zm-1-3zm-3 7zm-5-2zm-1-8zm-1 5zm-2-3zm-1 4zm-1 3zm-7 3zm-2-10zm0 3zm-3 1zm-1-7zm-3 5zm-2-3zm0 8zm-1-3zm-4 1zm-1-9zm-2 6zm-2 1zm0-3zm-2 5zm-4 3zm-2-2zm-3-9zm-1 7zm0-5zm-3 7zm-3-3zm-1-5zm-2 3zm-4 2zm-8-1zm-8 7zm-6-5zm-3-5zm-3 8zm-10-10zm-86 6zm-2 3zm-13-2zm-12 1zm-4 0zm-7 1zm-3 3zm-14 14zm6 0zm2-1zm2-8zm7 4zm2-2zm8 6zm1-3zm1 0zm18-2zm3-3zm3-2zm2 2zm1 4zm2 2zm1-9zm2 9zm1-6zm1-4zm0 2zm1 10zm1-3zm4 0zm0 3zm82-10zm14-1zm3-1zm8 3zm3-3zm12 6zm1 6zm3-3zm32-3zm3 0zm44 2zm0 6zm3-6zm6 5zm3-2zm3-6zm0 4zm1-7zm1 5zm1 4zm1-10zm3 5zm2-4zm3 5zm0-4zm7 6zm0-6zm2 7zm9 1zm0-11zm5 13zm2-4zm1-5zm8 10zm0-3zm1 13zm-1 2zm-1-5zm-2 6zm-1-5zm0-5zm-2 6zm-3-2zm-6-6zm-4 4zm0 5zm-1 2zm-1-10zm-1 7zm-1-4zm-2 2zm-4 3zm-2-4zm-2-3zm-6 2zm-1 8zm-9-7zm-2-3zm-7 1zm-1 2zm-3-3zm-64-2zm-30 2zm-3 2zm-98-2zm-3-2zm0 3zm-3-2zm-1 4zm-2 6zm0-5zm-1-2zm-2-5zm-1 6zm-4-3zm-3 9zm-1-3zm-1-7zm-2 10zm-1-1zm-3-9zm-9 4zm-4 4zm-1-5zm-3 9zm-9-4zm-3-3zm-7-6zm-3 4zm-2 4zm0-5zm-4 1zm0-3zm-2-2zm0 2zm-5-2zm0 8zm-7 4zm-2-4zm-11 7zm9 8zm2 1zm1-6zm0 8zm0-10zm1 7zm3-7zm0 5zm1 4zm2-4zm1-5zm0 7zm7 3zm0-5zm3 6zm0-6zm2-5zm0 2zm1 3zm0 5zm2-5zm3-7zm4 4zm0-3zm1 1zm2 0zm0 8zm1-2zm0-4zm1 6zm3-7zm2 6zm5-5zm0 2zm3 0zm2-3zm5 11zm2-10zm2 5zm1 5zm0-10zm1 3zm1 2zm2-1zm3 3zm2-10zm0 3zm2-1zm1 2zm1 3zm3-8zm2 3zm0 9zm1-11zm2 9zm2-3zm2-5zm101-1zm12 1zm88 3zm4 1zm3-3zm1 6zm3-3zm1 3zm2-1zm1-4zm2-3zm0 5zm5 0zm4 4zm2 4zm3-5zm4-4zm1-3zm1 10zm3-7zm2 3zm2-3zm9-4zm1 2zm3 9zm0-8zm4 1zm3 1zm1 2zm0-4zm-7 13zm-5 1zm-1-3zm-9 1zm0 6zm-4-2zm-1 6zm-6-6zm-3-2zm-7-2zm-1 6zm-3-7zm-4 1zm-1 9zm-3-6zm-2 8zm-2-11zm-8 7zm0-3zm0-2zm-3 2zm-178-5zm-12 0zm-1 13zm-3-10zm-4 0zm-7 7zm-2-9zm-1 10zm-10-11zm-1 6zm0-3zm-6-2zm0 4zm0 7zm-2-4zm-1-8zm-1 11zm-4 0zm-5 0zm-7-11zm-2 1zm-4-1zm-1 13zm0-8zm-7 1zm-2-2zm-1-3zm-3-2zm-5 6zm-2 7zm-4-5zm-4-3zm-2 5zm-1-6zm-4 5zm-7 3zm-2-8zm1 13zm0-2zm6 8zm2-6zm0 7zm4-6zm1 4zm1 4zm7-10zm5 2zm4 6zm2-7zm1 6zm7 3zm0-2zm5 2zm7-2zm2-9zm5 9zm0-3zm3-6zm2 1zm0 8zm1-4zm1-5zm4 6zm3-4zm3 6zm2 3zm2-3zm1-8zm1 2zm2 5zm9-4zm8 0zm9-2zm10 2zm161 8zm7-4zm12 3zm0-4zm4-6zm3 7zm1-6zm4 11zm1-8zm1 8zm2-3zm2-8zm2 0zm3 11zm1-9zm3 10zm1-4zm1-4zm3 5zm2-10zm0 12zm0-9zm13 8zm-9 3zm-3 4zm-4-1zm-14 9zm0-12zm-9 9zm-1-3zm0 5zm-3 0zm-2-8zm-14 5zm-7 2zm-1 1zm-1-8zm-1 5zm-3 1zm-2-8zm-7 9zm-5 0zm-3-1zm-9-3zm-3 2zm-135-3zm-3-5zm-4 5zm-9 4zm-19-4zm-3 0zm-5 4zm-5-1zm-2-7zm-4 4zm-3 3zm-3-7zm-7-2zm-3 10zm-2-6zm-3-1zm-2 0zm-1 2zm-2 1zm-5 6zm0-2zm-4-2zm-1 5zm-8-4zm-2-2zm-6 0zm-2-2zm28 11zm2 10zm1-11zm1 7zm1 2zm9 0zm1-6zm1-4zm4 5zm1 6zm3-5zm6-3zm5 10zm0-2zm3 2zm2-11zm2 1zm2 7zm6-6zm1 4zm5 0zm4 0zm9 2zm0-3zm10-3zm1 6zm0 4zm4-9zm1-3zm2 4zm0 7zm5-8zm88 3zm3 5zm1-8zm6 1zm3-1zm2 7zm3-4zm10 5zm1-10zm14 4zm0 3zm1-9zm8 2zm1 7zm3-4zm1 3zm0-6zm2 3zm3 4zm2-3zm3-5zm3 12zm4-2zm3 2zm1-8zm1-2zm1 10zm1-7zm3 7zm3-10zm0 4zm3-8zm2 11zm0-9zm2 1zm3 5zm1-3zm-12 10zm-5 4zm-6 5zm0 3zm-3 0zm0-7zm-2 7zm-5-1zm-3-3zm-3 2zm-4-10zm-3 5zm-2 5zm-2-4zm-1 3zm0-7zm-6 9zm-4-8zm-2 6zm-4-7zm-1 6zm-6-2zm-4 2zm-10-1zm-3 6zm0-5zm-1-7zm0 10zm-1-8zm-1 8zm-2-4zm0 2zm-1 3zm-1-13zm0 7zm-3-2zm0-3zm-4 11zm-3 0zm-1-13zm-8 11zm0-7zm-2-3zm-9 2zm-6 3zm-9 6zm-24-2zm-2-2zm-2 2zm-3 3zm-1-7zm0 3zm-2-7zm-4-2zm-6 5zm-10 0zm0 4zm-3 5zm-3-3zm-4 1zm-2-3zm-3-4zm-6 1zm-2-2zm-4 9zm0-4zm-6 0zm-3 0zm-1 4zm-2-5zm-1-5zm-2 6zm-5-8zm0 5zm-3 4zm-2-2zm-4-7zm-3 1zm-7 6zm-1-7zm-1 9zm-2-8zm-5 7zm-2 5zm-3-5zm5 7zm3-1zm9 4zm6 1zm3 7zm1-11zm2 7zm0-4zm4-3zm2 1zm1-2zm2 2zm4 9zm0-9zm12 6zm1-2zm0-4zm3 8zm1-7zm3-3zm0 12zm2-10zm4 0zm6 8zm3-4zm1-2zm0-3zm2 4zm1-6zm2 2zm1 2zm2 10zm2-1zm1-8zm1 6zm6 2zm10 0zm1-13zm0 11zm7-6zm5-1zm1 2zm1 4zm0-6zm3 7zm7-1zm3-5zm0-3zm6 7zm2 2zm4-8zm2 4zm6 4zm5-3zm2-4zm1-3zm5 5zm6 5zm0-7zm8 5zm4-1zm2-4zm0 4zm3 4zm4-7zm2 8zm2-10zm0 9zm3-11zm8 3zm1-4zm3 4zm6 0zm5 8zm5-3zm4-1zm5 0zm3-7zm3 0zm1 3zm5-2zm-51 14zm-1 3zm-13-2zm-13 7zm-6-9zm-5 1zm-2-1zm-1 11zm-1-5zm-3 4zm-2-7zm-1 7zm-1-10zm-1 6zm-1-3zm-7-1zm-3 9zm-3-4zm-1-5zm-4 7zm-6-9zm-3 10zm-1-2zm-2 1zm0-3zm-4-7zm-4 4zm-3 5zm-1 5zm-10-6zm-1-6zm-1 8zm0 4zm-9-2zm-2-3zm-1-6zm-15 2zm-2 4zm-1-4zm-2 9zm-6-2zm-8-11zm-1 6zm-4-3zm-1 4zm0 2zm-3-2zm0-3zm-3 3zm-2-3zm-14-4zm27 14zm6 0zm3 2zm2-2zm1 3zm13-3zm3 2zm5 6zm6-2zm3 0zm8-5zm6 4zm7-4zm0 5zm2-2zm1 2zm5 4zm1-7zm3-3zm5 5zm1 3zm1-8zm5 2zm1 3zm4-3zm8 3zm0-6zm2 2zm5-2zm1 4zm7-3zm54 13zm2-1zm128-5zm-250 44zm5 14zm4-8zm19 3zm171-5zm22 8zm-16 8zm-127 12zm-17-11zm-84 8zm0 10zm6-7zm86 11zm47 8zm-102-1zm-4 4zm-29-8zm8 15zm20 9zm52 0zm81-5zm27 9zm1-2zm12 1zm1 0zm5 3zm-1 2zm-5-2zm-4 5zm-2 0zm-5-2zm-1 2zm-1-3zm-138-3zm-16 9zm-5-2zm-5-4zm0 16zm12 8zm6-5zm12-1zm4-7zm2 7zm1-7zm16 0zm5 3zm2-1z" stroke="#BEBEBE" stroke-width="6.7" stroke-linecap="round" fill="none"/><path d="M2837 1274zm32 20zm-114-4zm-154 4zm-6 9zm2-1zm6 10zm0-5zm1-5zm1 1zm3 8zm189-7zm74 3zm-257 16zm0 3zm-10-5zm-3 6zm-11-5zm-11-3zm-1 4zm-23 4zm-4 6zm1 1zm2-2zm8 3zm11 5zm0-4zm1-2zm8 10zm12-2zm13-6zm7-4zm36 0zm-36 20zm-4 3zm-8-7zm-1 7zm-3-7zm-18 6zm-17-8zm-1 10zm-4 0zm-16-2zm-3 17zm45-1zm14-10zm17 12zm255-14zm-256 26zm-3-11zm-28 7zm-14-5zm-11 3zm-12-4zm54 30zm221 13zm-83 9zm-64-2zm-15 2zm74 11zm35-6zm20 15zm-122 46zm25 12zm-36 60zm6-4zm2 2zm3-2zm2 1zm25-2zm5 3zm158 8zm-141 5zm-3 3zm-3 1zm-7-1zm-6 1zm-4-8zm-34 12zm3 1zm1 3zm15 6zm8 3zm5-4zm4-9zm1 2zm12 2zm2-2zm8 6zm3 5zm2-12zm3 0zm9 4zm-42 12zm-4 0z" stroke="#DD9283" stroke-width="6.7" stroke-linecap="round" fill="none"/><path d="M2856 1278zm-107 18zm-22 20zm5-9zm7 4zm7 0zm1 2zm22-6zm13 6zm6-1zm1-5zm4-3zm10 20zm-42-2zm-7-1zm-5 5zm-2-5zm21 21zm5-3zm26-8zm3 2zm21 69zm-16 2zm-8 1zm-10 7zm-170 4zm26 3zm115 6zm202 12zm-6 0zm-2-1zm-8 4zm-76 2zm-13 10zm8 3zm6-5zm3-4zm28 10zm0-8zm25 1zm15 4zm2 15zm-4-2zm-29-1zm-26 1zm-32 3zm-4-1zm0-9zm-2-1zm7 24zm2-11zm5 8zm39 1zm12-1zm1-5zm1 7zm4-10zm6 10zm3-2zm13-7zm6 7zm8 0zm-9 19zm-4-3zm-10-11zm-3 11zm0-3zm-7 2zm-11-8zm-4 10zm-5-2zm-3-10zm-10 5zm-1-2zm-2 5zm0-7zm-8 8zm-7-2zm-3-7zm-2 11zm-5-8zm-10 10zm-8-10zm-4 9zm-154-3zm144 17zm4 2zm1-3zm4-2zm29-9zm6 10zm6-3zm3 1zm0-5zm10 0zm3 8zm7 0zm19-2zm1-1zm9 3zm7 10zm-14-2zm-2 4zm-10-8zm-3 3zm-4 1zm0 5zm-8 4zm0-7zm-3-3zm-2 3zm-5-2zm-6 2zm-22-1zm-7-6zm-13 12zm-3 0zm-31-9zm-28 10zm-18-3zm-10 2zm-2-1zm-59 0zm-4 3zm-3-4zm-3-1zm-30 0zm4 11zm7 4zm23-6zm56 4zm3-6zm2 3zm15 7zm61-7zm14 2zm17-1zm2 7zm1-11zm5 11zm22-7zm5 0zm0-3zm3 2zm10 5zm1-6zm1-3zm-41 14zm-12 0zm-21 2zm-24 1zm-8 9zm-15-2zm-22-9zm-23-2zm-2 11zm-3-10zm-44 0zm-10 25zm96-10zm18 1zm1 8zm17-1zm7-6zm5 0zm-75 16zm-7-2zm0 6zm-3-5zm-2-3zm-2 4zm-1-3zm-34 6zm-17-3zm-11 5zm0 17z" stroke="#F25B47" stroke-width="6.7" stroke-linecap="round" fill="none"/><path d="M2625 1301zm167 5zm-12 3zm-13-4zm-39 0zm11 13zm5 10zm7-9zm1 8zm4-6zm9-4zm32 13zm2 5zm-6 6zm-58-9zm11 12zm15 0zm204 93zm-5 1zm-2 4zm-3-3zm-162 15zm45 2zm3-5zm11 0zm11 4zm5-6zm24 0zm7-1zm37 1zm1 5zm-20 10zm-1-2zm-33-1zm-4 2zm-20-5zm-21 7zm-3-3zm22 13zm10-1zm18 5zm13 3zm33-1zm0-4zm3-1zm17 9zm-11 4zm-4 3zm-32-8zm-9 14zm-22-12zm-7 1zm-3-2zm-3 7zm-2-6zm-11 3zm-1 3zm-15 18zm22-1zm21-2zm3 0zm19 3zm7-12zm2 4zm5 0zm4 7zm10-3zm1-5zm6 10zm8-4zm2 3zm1-10zm2 10zm1-5zm5 1zm-9 8zm-5-1zm-1 9zm-5 1zm-17-3zm0-3zm-24 5zm-7-9zm-3 9zm-4 0zm-16-9zm-2 3zm-10-2zm-6-1zm-22 12zm-9-7zm-3 7zm-101-5zm-21 0zm-7-1zm-35 15zm46-4zm46 8zm4-6zm46 4zm3 0zm25 2zm7-2zm1-7zm21 11zm1-9zm1 6zm47-9zm17-2zm2 3zm9 0zm-132 11zm-14 1zm-11 12zm-11-6zm-12-5zm-7 11zm-3 0zm-13 7zm20-3zm7 1zm15 2zm39-6zm1 4zm3-3zm-38 17zm-15 1z" stroke="#F93B29" stroke-width="6.7" stroke-linecap="round" fill="none"/><path d="M2722 1274zm137 1zm-103 35zm-10-5zm-3 7zm-9 3zm-7-7zm-110 7zm-14-10zm-2 10zm-19-8zm-4 7zm-24 16zm3-5zm3 4zm13-10zm8 0zm6 2zm15 2zm10 1zm8 1zm19-8zm95 0zm16 12zm5-11zm17 4zm42-6zm38 16zm-71 5zm-36-6zm-132 10zm-8-6zm-19 6zm-8-3zm-10 5zm-16-3zm-4 2zm-5-6zm17 21zm5-6zm2 1zm0-4zm1-3zm1 5zm13 8zm182-10zm18-1zm-171 13zm-21 10zm-20-9zm-6 5zm-3 3zm-14 4zm9 3zm6-1zm2 0zm13 2zm4 7zm16-7zm4 3zm189 4zm81-11zm-35 25zm-250-11zm134 36zm56-3zm187 14zm-71 7zm-10-5zm-92 10zm13 1zm33 8zm11 0zm15-1zm22-9zm60 25zm-15 0zm-4-5zm-16-5zm-9 0zm-12-4zm-33 6zm0-4zm-179 25zm161-11zm17 0zm5 1zm2-2zm16 12zm3-6zm9-1zm25 7zm5-5zm5-1zm2-1zm8 7zm24-2zm-9 7zm-4 1zm-27 5zm-21 0zm-5 1zm-2 0zm-9 1zm0-5zm-22-2zm-9 3zm-28-3zm-154 16zm154 4zm35 2zm11-11zm7 4zm1-3zm3-2zm2 12zm8-13zm17 13zm10-12zm2 2zm8 3zm7-6zm13 2zm-14 22zm-8 0zm-11 3zm-6-11zm-1 6zm0 5zm-7 0zm-5-11zm-20 12zm-11-10zm-1 6zm-27 4zm-28-10zm-10 7zm-132-3zm-13 2zm-3 16zm1-7zm1-4zm6 8zm0-8zm88 2zm3 9zm2-10zm35 3zm1 7zm19 1zm15-7zm25-4zm1 5zm46 3zm4-2zm7 0zm-50 7zm-6 2zm-4-1zm-61 9zm-2-4zm-15-6zm-20 3zm-4-3zm-63 4zm-21 8zm0 10zm10 3zm18-1zm1 2zm3-8zm1 6zm15-1zm3 3zm25-8zm0-3zm25 6zm6-5zm8 5zm20-3zm1 3zm46 1zm14 11zm-10 3zm-84-6zm-10 1zm-32 4zm-7 5zm0-11zm-8 10zm-3 0zm-15-11zm-7 9zm-4 2zm-1-12zm-1 8zm-3 1zm-2-5zm0-2zm-9 3zm-6-5zm13 27zm6-13zm1 12zm1-6zm2-2zm0 5zm1 3zm7-7zm15 5zm1-8zm9 7zm8 0zm2-4zm1-3zm6 9zm7-1zm1-8zm-63 13z" stroke="#EC7C66" stroke-width="6.7" stroke-linecap="round" fill="none"/><path d="M2580 1315zm9-12zm27 5zm6-6zm6 21zm-29-2zm-7 2zm-10 3zm-2-5zm15 17zm19 11zm-20-1zm-18 7zm-1 5zm10 2zm19 5zm10-5zm-18 21zm-33-5zm-1 4zm-8-8z" stroke="#CDA8A1" stroke-width="6.7" stroke-linecap="round" fill="none"/><path d="M2727 1311zm6-6zm19-1zm14 10zm9-1zm-8 9zm-19 5zm-7 10zm20 0zm6-3zm23 8zm2 1zm0-9zm10-3zm-22 19zm104 87zm2-2zm56 5zm2 2zm7-5zm1 4zm8-5zm2 3zm5-5zm-12 8zm-5 2zm-5 1zm-3 5zm-2-8zm-1 10zm-22 4zm-4-11zm-10 8zm-30 1zm-29-4zm-4 3zm-38 1zm43 12zm0-2zm2 2zm5-6zm6 9zm4-13zm5 4zm10 5zm4-6zm31 3zm17-1zm17 16zm-30 6zm-10-9zm-11 3zm-2 0zm-3-7zm-5 6zm-1 2zm-1 3zm-8-10zm-6 0zm-5 11zm-1-7zm-9 0zm-3-1zm-5 8zm-42 11zm63-1zm8-5zm1-2zm6 2zm0-2zm17 6zm10 3zm11-3zm4 4zm3-6zm8-2zm13 16zm-11 8zm-23-12zm-11 2zm-1 10zm-2-5zm-4-6zm-2 4zm-7-5zm-2 2zm-7 1zm-4 10zm-5-2zm-3 1zm-13-6zm-7-4zm-7-3zm-152 10zm-38 14zm32 2zm5 1zm51-1zm53-6zm18 1zm3 3zm10-7zm14 5zm25-6zm3-1zm7 0zm9 1zm21 10zm9-1zm23-7zm5 8zm2-8zm3 0zm-14 11zm-3 1zm-27 4zm-3-1zm-9 3zm-4 0zm-25-5zm-2 5zm-7 4zm-17-4zm-15-7zm-21 3zm-3 7zm-3-2zm0 4zm-10-2zm-120-8zm21 12zm35 12zm21-9zm37 5zm19 0zm4-1zm4-2zm40-2zm-32 17zm-6 6zm-6-7zm-25 6zm-10 0zm-15-2zm-10 1zm-15-6zm25 12zm6 4zm8-7zm-83 28z" stroke="#F93B29" stroke-width="6.7" stroke-linecap="round" fill="none"/><path d="M2890 1287zm-82 10zm-210-3zm-24 15zm12 4zm19-4zm1 4zm4-9zm26 21zm-5-7zm-31 5zm-10 7zm0-12zm-3 1zm-3 10zm-10-3zm-2-7zm-10 6zm-4 2zm-15 13zm10-4zm13 6zm7 0zm6-8zm4 4zm13-3zm4-2zm3 6zm1 3zm7-4zm10 5zm3-6zm1 5zm233-1zm-243 15zm0-10zm-13 5zm-2-5zm-3 4zm-10 5zm-16 1zm-1-11zm-4 8zm-7-4zm-8 6zm-2-4zm0-6zm-4 27zm7-10zm17-3zm2 4zm2-5zm1 6zm6-3zm26-2zm3 9zm4-10zm-14 17zm-11-3zm-14 10zm-36-6zm72 18zm172 2zm-70 19zm-59 17zm42 20zm-37 110zm16 1zm18 3zm10-9zm135 10zm2 3zm-126 10zm-5 2zm-14-9zm-1-4zm-2 8zm-14-1zm-2 3zm-12-9zm-2 11zm-3-6zm-2-5zm12 19zm4 3zm7-3zm5 2zm1 3zm11-5zm2 5zm5-6zm7 0zm13-5zm7-1zm-45 15z" stroke="#DD9283" stroke-width="6.7" stroke-linecap="round" fill="none"/><path d="M2611 1322zm9 9zm-22 4zm-2 8zm-12-11zm-19 10zm8 8zm25 2zm6-6zm-11 24zm-55 7zm20-4zm27 7z" stroke="#CDA8A1" stroke-width="6.7" stroke-linecap="round" fill="none"/><path d="M2738 1272zm2 2zm2-2zm0-2zm4 2zm4-4zm16-3zm5 8zm4-7zm5 1zm1-3zm4 2zm4 1zm5-7zm1 13zm2-11zm6 2zm3 0zm2 3zm2-1zm2-6zm3 8zm1-4zm2 6zm1-7zm4 10zm5-12zm6 5zm3 5zm13-2zm16 4zm22 9zm-4-3zm-2 7zm-1-6zm-4-2zm-1 8zm-2-10zm-7 1zm-2 8zm-3 2zm-1-11zm-2 2zm-6 8zm-1-9zm-6 0zm-1 10zm-1-13zm-4 8zm-8 5zm-1-8zm-7-1zm0 6zm-3 2zm-5-11zm-2 5zm-10 0zm-2 7zm-2-9zm0 5zm-2-7zm-5 1zm-2 9zm-1-5zm-1-3zm-6 5zm-1-2zm-3-4zm-9 7zm-4 1zm0-9zm-2 4zm-9 1zm-3-6zm-6 0zm-3 0zm-3 4zm-6-3zm-3 9zm-2 2zm-3-12zm-1 3zm-2-2zm-2 5zm-5 6zm-1-7zm-6 6zm-2-2zm-124 17zm6-2zm2 3zm5-5zm10 4zm8 0zm1-1zm7 0zm1 1zm86-10zm13 1zm10 4zm0-8zm1 3zm3 8zm0-8zm2-1zm1 10zm4-10zm2 7zm16-5zm3-1zm3 0zm1 3zm4 2zm5-8zm5 2zm3 12zm1-3zm0-5zm6 2zm2-4zm1 7zm3-5zm2 7zm6-9zm5 6zm8-5zm26-3zm6 12zm6 0zm0-2zm0-4zm3 5zm1-3zm6-1zm6 2zm5-11zm3 1zm1 3zm1-4zm0 8zm4-4zm3 5zm7 18zm-1-4zm-2 2zm-2-5zm-3-4zm-1 4zm-5-3zm-1 7zm-4 3zm-5-7zm-2 2zm-1-7zm-4 0zm-2 7zm-2 2zm-8-7zm-2 4zm-2 2zm-3-3zm0 3zm-3-3zm-7 6zm-37-10zm-11 0zm-1 6zm-13-7zm-3 3zm-6 1zm-1 4zm-3-6zm-1 9zm-4-1zm-4-1zm-5-9zm-3 11zm-3-11zm-2-1zm-101 10zm-13-3zm-1 4zm0-8zm-1 2zm-1 9zm-1-12zm-4 12zm0-2zm0-9zm-1-2zm-1 1zm-4 7zm-5-1zm-2 5zm-5-2zm-2 2zm-1-2zm0-4zm-2-1zm-4 6zm-2-4zm-9 0zm-6 2zm-1-5zm-2 5zm-2 2zm-1-2zm-8 12zm2-2zm10 2zm2-7zm3 0zm4 12zm1-6zm1-6zm4 0zm2 7zm3-7zm0 4zm4-4zm9 9zm0-6zm0 3zm2-5zm1-1zm3 12zm0-11zm5 6zm1 3zm5 0zm4-5zm0 4zm2 1zm1-6zm1 3zm2 0zm1 0zm1-6zm7 4zm2 0zm100-5zm96 5zm0 6zm6-11zm0 12zm0-8zm1 4zm2-1zm4-6zm3 8zm0-9zm4 8zm6-9zm1 10zm5 3zm2-6zm12-1zm3 1zm10 3zm7 15zm-3-9zm-1 11zm-11-8zm-1-3zm-5 10zm-2-10zm-3 2zm-12 9zm-6-3zm0-7zm-9 1zm-2 9zm-4-11zm-1 9zm-5 0zm-2-3zm-88-5zm-97 3zm-5 4zm0-5zm-3 5zm0 3zm-2-10zm-3 7zm-1 1zm-4-2zm-4-3zm-1 8zm-2-2zm-1-3zm0 2zm-10 2zm0-12zm-1 10zm-1-4zm-4 5zm-2-4zm-1 5zm-3-3zm-4-9zm-5 0zm-2 4zm-1-4zm0 8zm-1 4zm0-8zm-3-5zm-1 5zm-1 4zm-3 1zm-1-7zm-1 2zm-1-2zm-5 6zm-7-7zm-1 9zm-1-2zm0-2zm-2 7zm-3-13zm-8 6zm-5-1zm-8 0zm-1 9zm6 10zm5-5zm3 6zm4-3zm11 0zm1-5zm2-1zm1 6zm1-4zm2 8zm2-2zm3 1zm4 0zm3-8zm1-4zm3 3zm0 2zm1 2zm2 0zm1-6zm2 8zm1-3zm1 2zm1 5zm4-7zm3 4zm6 0zm2-2zm7-2zm1 6zm2-10zm1 9zm11-5zm3 4zm5 0zm3 1zm10-6zm191 3zm2-1zm0 4zm3-7zm4 3zm1 2zm2-6zm3 10zm0-7zm1-4zm1 6zm4-6zm1 7zm6-7zm1 3zm1 3zm2 6zm0-10zm3 9zm14-7zm-13 17zm-9-2zm-6-3zm-5 4zm-5-2zm-2 3zm-3-6zm-4-2zm-2 3zm-3 1zm-6-2zm-6 2zm0 5zm0 1zm-1 3zm-2-6zm-3-3zm-2 6zm0-3zm-8 3zm-4 2zm-156-3zm-8-6zm-9-3zm-3-1zm-10 13zm-3-10zm-1-2zm-5 9zm-1-4zm0-4zm-2 11zm-1-2zm-10-7zm-4-4zm-3 7zm0-7zm-2 10zm-9-1zm-3-1zm-5 3zm-15-5zm-1-5zm-1 10zm-4-1zm-4 0zm-3-4zm-1 6zm-3 2zm-2-6zm-6-6zm-3 3zm3 10zm11 4zm4 2zm6-3zm1 4zm4-3zm1-2zm1 2zm4-5zm1 8zm0-5zm5 11zm6-1zm6-7zm9 3zm4 5zm0-3zm14-10zm0 13zm2-4zm4-8zm5 4zm23 6zm1-9zm13-3zm1 8zm114 5zm5-1zm1-3zm8-2zm2 0zm0-2zm4 2zm1-4zm2 4zm4 0zm0-2zm5 6zm1-10zm1 7zm4-7zm6 7zm1-4zm0 10zm1-14zm2 7zm0-6zm0 2zm5 5zm14 1zm6-8zm2 3zm9 7zm1-3zm4-1zm3 3zm2-10zm-19 22zm-1-6zm-2-2zm-1 12zm-2-10zm-2 7zm-3-1zm-2 2zm-5-1zm-5-1zm-1-7zm-2 10zm-2-9zm-10-2zm-6 11zm-4-11zm-4 0zm-2 2zm-1 2zm-2 9zm-4-4zm-1-9zm-2 6zm-3-2zm-2 8zm-9-2zm-3-6zm-1-3zm-2 12zm-1-11zm0 8zm-5-1zm-1-7zm-26 10zm-1-3zm-4 2zm-64-4zm-1-5zm-4 10zm-3-9zm-6 6zm-1-7zm-1 4zm-1 2zm-1 5zm-1-11zm-1 7zm-1-4zm0 6zm-2-2zm-8-3zm0 7zm-1-5zm-2-2zm0 8zm-5-11zm-1 2zm-3 2zm0-2zm-6 8zm0-4zm-1-6zm-4 7zm-2-5zm-7-5zm-1 10zm-9 3zm-2-12zm-1 8zm-1 3zm-8 0zm0-11zm-1 3zm-2 9zm-3-10zm-3 6zm0-3zm-3 12zm5 2zm2-5zm1 3zm2 3zm4-4zm6 7zm0 3zm4-6zm0-3zm3 3zm3 6zm3-1zm2-3zm2-8zm0 5zm2 5zm1-7zm2 1zm2-3zm2 2zm1-3zm3 1zm1 3zm1 7zm4-9zm6-1zm0 9zm2-8zm10 11zm4-11zm1 7zm1-3zm6-4zm0 3zm0 4zm1 3zm2-6zm6-6zm5 12zm0-5zm4-4zm3 4zm30 6zm8-2zm1-3zm2-5zm0 9zm5-3zm1-5zm1-4zm4 7zm6-7zm0 3zm1 7zm2-8zm2 4zm2-4zm3-3zm8 2zm6 0zm3 9zm1-9zm3 11zm0-8zm2-2zm5-2zm1 3zm18 1zm8 8zm0-13zm3 12zm0-2zm3-3zm18-7zm2 3zm1 4zm-13 12zm-8-4zm-7 4zm0 6zm-1-3zm-2 1zm-4 0zm-4-4zm-1 3zm-1 2zm-2 2zm0-7zm-1 2zm-2 4zm0 2zm-1-5zm-3-2zm-3 2zm-4-2zm-2 4zm-4-9zm-1 4zm-1 3zm-7 2zm-5-7zm-1 7zm-3-8zm-2 8zm-3 3zm-1-2zm-1-3zm-3-3zm-2 3zm0 5zm-4-2zm-3-10zm-1 13zm-4-5zm-5-3zm-2-5zm-12 6zm-4-1zm0-3zm-1 10zm-2-12zm0 4zm-3-3zm-2 11zm-1-7zm0 3zm-1-6zm-6 2zm0 1zm-4-2zm-5 0zm-5-2zm-1 8zm-3-2zm-5 0zm-3-2zm-5 6zm-3 1zm0-2zm-2-1zm-5 3zm0-2zm-1-4zm-5 2zm-2-3zm-3 1zm-3 2zm-1-8zm-4 8zm-3-4zm-2 8zm-4-4zm-4 1zm-1-3zm-10-2zm-3 4zm-1 4zm-4 0zm-2-12zm-2 7zm-1-3zm0-2zm-4 1zm16 12zm3 5zm0-2zm14-3zm2 8zm0 4zm3-2zm2 2zm3-1zm7-2zm0-10zm3 0zm5 6zm1-5zm3 8zm1-3zm2-7zm0 5zm2 1zm1 3zm1 3zm2-5zm3-1zm0-2zm3 2zm3 5zm1 3zm0-6zm9-6zm8 0zm2 11zm1-12zm4 8zm1-3zm6-1zm2 5zm1 3zm2-10zm0 8zm3-11zm1 4zm6-2zm6 3zm3 4zm1-4zm9-1zm6 5zm1 3zm4-1zm1-8zm6-1zm10 4zm11 1zm4 0zm5-5zm8-1zm129 22zm-116 0zm-74-8zm-1 3zm-5-1zm-6 2zm-8 0zm-8 5zm-1-5zm-5 2zm-2-5zm-1 7zm-2 2zm-12-8zm-12-1zm-4 6zm-6-2zm-8-3zm-2 3zm-1-4zm-2 3zm-3-1zm-11-2zm254 14zm17 10zm2-10zm25 18zm0-2zm-251 21zm207 0zm58-10zm-267 24zm13 9zm108-3zm-135 14zm-3-1zm103 21zm14 2zm13-3zm67 6zm9-6zm-9 17zm-2 0zm-2 0zm-4 3zm-8 0zm-35-7zm-112 4zm-7 1zm-9-2zm0 3zm-9-1zm-2 12zm14-1zm2 4zm16 0zm10-6zm5 5zm128-5zm8-5zm3 1zm3 1zm0 4zm2-2zm2-2zm-128 14zm-33 0zm-22 5zm31 7z" stroke="#BEBEBE" stroke-width="6.7" stroke-linecap="round" fill="none"/><path d="M2800 1264zm-198 36zm-19 14zm14-2zm4-1zm7-6zm133 9zm10 0zm3-7zm9 2zm15 5zm62-8zm-45 22zm-27-4zm-6-5zm-5 5zm-9-1zm-7 3zm-99-2zm-15 5zm-14-1zm-10 0zm-20-7zm-24 5zm-1-5zm-6 7zm-1 1zm-5 5zm5 9zm2-1zm8 1zm20-5zm13 2zm7 3zm3 1zm143-3zm0-7zm5 6zm27 3zm58 12zm-73-11zm-124 2zm-28 8zm-22-3zm-13 3zm-8-7zm-12 11zm0-2zm-5-12zm-15 11zm15 17zm6-11zm7 1zm1-3zm7 10zm4-8zm14 5zm6-2zm0 2zm3-3zm265-3zm-252 20zm-24-5zm-7-2zm-2 9zm-4-9zm28 28zm1 7zm52 20zm22 8zm249 1zm25 7zm-12 0zm-13 0zm-15 5zm-16-4zm-69 7zm-27-7zm-1 10zm-4 0zm-12 1zm-2-2zm55 13zm7-7zm28 4zm3-4zm10 4zm2 6zm4-4zm4 0zm8-7zm2 8zm0-2zm50 9zm-12 1zm-7-3zm-3-1zm-2 3zm-10-1zm-12 2zm-1 5zm-7 3zm-11-3zm-5 2zm-3-6zm-1 3zm-4 1zm-82-6zm-120 12zm162 7zm0-6zm3 2zm10 5zm9-9zm9 10zm11-10zm10 1zm1 8zm9 1zm7-7zm16 4zm22 0zm3-6zm6 2zm-4 12zm-7 3zm-25 3zm-8 0zm-15 6zm0-10zm-25 0zm-9 6zm-1-3zm-4-1zm-8 2zm-17 1zm-4-1zm-2-6zm-174 23zm1-4zm1 5zm2-3zm4 1zm14-9zm0 4zm102 5zm30 2zm46-10zm9 8zm1-2zm30-3zm1-4zm0 11zm19-3zm1-2zm3-4zm2 10zm8-6zm2-5zm0 6zm2-7zm4 13zm8-8zm-19 9zm-15 2zm-8 5zm-3-5zm-3 3zm-4-5zm-10 1zm-41 5zm-22 0zm-128 2zm-10-1zm-3-2zm-16 1zm-7 4zm-3-5zm112 18zm4 1zm26-9zm5 4zm19 16zm-7 6zm-16-13zm-7 7zm-41-1zm-14-6zm-23 12zm-5 0zm-2-7zm-6 4zm-21-5zm-12 5zm-3-7zm-2 11zm29 7zm4 3zm15-9zm32 7zm21-4zm85 3zm-117 14zm-4-7zm-2 11zm-13 1zm-3-9zm-2 7zm-14-9zm-5-1zm0 13zm-3-12zm-14 0zm-3 6zm28 7zm8 3zm14-3z" stroke="#EC7C66" stroke-width="6.7" stroke-linecap="round" fill="none"/><path d="M2835 1510z" stroke="#FF1A0A" stroke-width="6.7" stroke-linecap="round" fill="none"/><path d="M2772 1268zm32 3zm79 12zm-101-8zm81 18zm-78 18zm-33-1zm-4 5zm-18-3zm-8 3zm20 8zm6 7zm4-7zm9 2zm98-4zm23 19zm-111 1zm-26-4zm-2-3zm25 12zm17 2zm9-4zm-138 17zm2 16zm182-4zm-120 37zm-100 1zm-31-7zm291 30zm70 6zm-11 5zm-26 7zm-31-6zm-5 10zm-76-4zm0-5zm-7 8zm-128-6zm170 10zm8-2zm6 4zm6 4zm4-1zm10-5zm3-2zm7 4zm7 7zm4-4zm4-4zm8 4zm0 3zm1 2zm4-3zm6 1zm3 1zm9-8zm3 4zm3-7zm4 8zm1 2zm2-10zm8 13zm11 8zm-3-2zm-4-2zm-10 7zm-2 2zm-24-9zm-4 8zm-5-5zm-11-6zm-2 4zm-6 8zm-12-1zm-21-4zm-13-6zm-2-2zm-158 21zm156-1zm5 2zm2-3zm10 8zm2-9zm6 9zm2-5zm5-6zm5 2zm8 5zm6-2zm4 6zm2-2zm22 1zm8-6zm1 7zm3-9zm4 8zm3-1zm1-6zm3-2zm4 2zm1 14zm-8 3zm-2 5zm-3-7zm-5 3zm-6-9zm-2 11zm-7-1zm-2 3zm-2-5zm-8 5zm-9-7zm-12 8zm-23-5zm-4-4zm-3-2zm-3 2zm-1 4zm-26 4zm-103-2zm-35 6zm3-2zm7 9zm78 1zm18-2zm2-5zm5 8zm17-4zm4-6zm23-1zm18 1zm1 6zm7-2zm5-2zm14 10zm0-5zm6 3zm5-6zm8 4zm1-8zm5 9zm5-1zm4-4zm15 0zm3 7zm5-12zm-22 15zm-13 3zm-3-1zm-11 1zm-9-1zm-21 8zm-8-7zm0 3zm-9-1zm-2 2zm-8 1zm-7 4zm-13-5zm-34-8zm-3 7zm-11 4zm-23-1zm-10 1zm0-4zm-4 5zm-47-12zm-1 7zm-2 2zm-19-1zm-7 4zm79 3zm4 7zm9 3zm2-11zm21 3zm6 7zm25-5zm34-3zm3 3zm1-3zm-24 12zm-8 11zm-1-7zm-1 6zm-26-5zm-5-1zm-4 3zm-18 1zm-1-7zm-7 2zm-12 1zm-7 4zm-9-7zm-62 6zm13 18zm26-12zm44 2zm10 2zm2-4zm-19 21zm-26 5zm-6-1zm-6-5z" stroke="#F25B47" stroke-width="6.7" stroke-linecap="round" fill="none"/></g><path d="M1256.8 619.7V811.7H1503" fill="none" stroke="#000" stroke-width="1.8"/><text x="1312.2" y="831.5" font-size="15.6" text-anchor="middle" fill="#000">−4</text><text x="1371.8" y="831.5" font-size="15.6" text-anchor="middle" fill="#000">0</text><text x="1431.4" y="831.5" font-size="15.6" text-anchor="middle" fill="#000">4</text><text x="1491" y="831.5" font-size="15.6" text-anchor="middle" fill="#000">8</text><text x="1247.8" y="663.9" font-size="15.6" text-anchor="end" fill="#000">5</text><text x="1247.8" y="712.2" font-size="15.6" text-anchor="end" fill="#000">0</text><text x="1247.8" y="760.6" font-size="15.6" text-anchor="end" fill="#000">−5</text><text x="1247.8" y="808.9" font-size="15.6" text-anchor="end" fill="#000">−10</text><path d="M1312.2 811.7v4.4M1371.8 811.7v4.4M1431.4 811.7v4.4M1491 811.7v4.4M1256.8 657.8h-4.6M1256.8 706.1h-4.6M1256.8 754.5h-4.6M1256.8 802.8h-4.6" stroke="#000" stroke-width="1.8" fill="none"/><text x="1378.7" y="854.1" font-size="18.8" text-anchor="middle" fill="#000">UMAP_1</text><text x="1215" y="715.2" font-size="18.9" text-anchor="middle" fill="#000" transform="rotate(-90 1215 715.2)">UMAP_2</text><text x="1396.6" y="604.4" font-size="22" text-anchor="middle" fill="#000">Krt18</text><linearGradient id="cg3" x1="0" y1="0" x2="0" y2="1"><stop offset="0" stop-color="#FF1A0A"/><stop offset=".5" stop-color="#EC7C66"/><stop offset=".92" stop-color="#BEBEBE"/><stop offset="1" stop-color="#BEBEBE"/></linearGradient><rect x="1521.3" y="668.3" width="20.8" height="105" fill="url(#cg3)"/><text x="1550.9" y="677.1" font-size="16.3" text-anchor="start" fill="#000">5</text><text x="1550.9" y="702.2" font-size="16.3" text-anchor="start" fill="#000">4</text><text x="1550.9" y="727.3" font-size="16.3" text-anchor="start" fill="#000">3</text><text x="1550.9" y="752.4" font-size="16.3" text-anchor="start" fill="#000">2</text><text x="1550.9" y="777.1" font-size="16.3" text-anchor="start" fill="#000">1</text><path d="M1521.3 671.3h4.2M1542.1 671.3h-4.2M1521.3 696.4h4.2M1542.1 696.4h-4.2M1521.3 721.5h4.2M1542.1 721.5h-4.2M1521.3 746.6h4.2M1542.1 746.6h-4.2M1521.3 771.3h4.2M1542.1 771.3h-4.2" stroke="#fff" stroke-width=".7" fill="none"/><g transform="scale(.5)"><path d="M325 2113zm17-1zm39 9zm-1-2zm-15 3zm-7-6zm-17 10zm-19-5zm-2 2zm-14-5zm27 13zm3 4z" stroke="#FF1A0A" stroke-width="6.7" stroke-linecap="round" fill="none"/><path d="M249 1829zm155 27zm-152 0zm-17 2zm-13-9zm-14 23zm26-3zm5 6zm-24 12zm-24 4zm32 4zm0 7zm1 8zm10 12zm221 17zm-165 5zm39 16zm182 30zm17 22zm69 11zm-89 4zm-6-10zm71 19zm10 21zm-29-11z" stroke="#DD9283" stroke-width="6.7" stroke-linecap="round" fill="none"/><path d="M503 1890zm-208 168zm4 45zm6 5zm11 4zm7-5zm5 4zm4-7zm8 2zm18-1zm2 8zm3-3zm19 13zm-16-4zm-1 7zm-8-6zm0-2zm-2 8zm-9-7zm-8 8zm-8-5zm-12-5zm-8 5zm-1-3zm5 12zm3 1zm6-3z" stroke="#F93B29" stroke-width="6.7" stroke-linecap="round" fill="none"/><path d="M395 1806zm3-1zm6-3zm1 2zm2-3zm5 5zm3-2zm4 1zm12-9zm3 3zm3-3zm5 3zm10-5zm0 8zm3-6zm2-2zm11 1zm2 9zm25-1zm8 1zm21 15zm-7-9zm-1 9zm-2-4zm-5-6zm0 11zm-2-10zm-2-2zm-1 5zm-1-2zm-3 6zm-1-8zm-1-3zm-1 6zm0 7zm-3-11zm-9 1zm0 3zm-7 5zm-2-4zm-2 5zm-6-9zm-4 4zm-3-7zm-15 1zm0 9zm-7-9zm-2 11zm-2-9zm-8 1zm-1-2zm-2 4zm-1 6zm-1-2zm-2-6zm-3 1zm-2-3zm0 8zm-15 1zm-2 2zm-1-11zm-3 8zm0-4zm-4 1zm-3-2zm-4 4zm-2-6zm-1 3zm-10-3zm-1 5zm-9 6zm-2-5zm-1 2zm-2-1zm-124 17zm7-1zm4 0zm12-1zm13 2zm2-3zm81-8zm2-1zm3 3zm7-3zm2-1zm3 0zm1 6zm3 5zm1-9zm13 7zm8 1zm4 1zm0-3zm2-3zm1 5zm3-5zm0 8zm3-7zm0 5zm1-10zm0 3zm3 9zm6-1zm2-5zm0-5zm0 8zm2-1zm2-6zm1 9zm4-1zm1-5zm2 3zm3-5zm1 7zm0-10zm3 9zm0-3zm9 7zm1-3zm1-4zm2 3zm1-5zm1 8zm8-5zm1 3zm1-5zm4 6zm3-8zm6-3zm6 4zm7 0zm0 6zm2-8zm5 5zm6 5zm3-4zm4-1zm1 2zm3 1zm5-2zm4-8zm10 8zm2 1zm0-9zm5 5zm11 22zm-8-7zm-1 5zm-4-11zm-3 2zm-5-1zm-2-2zm-2 13zm-2-7zm0 6zm-3-4zm-4-2zm0 4zm-1-9zm-2 4zm-2 4zm-3-5zm-1 10zm-1-4zm-1-5zm-1 7zm0-4zm-6-8zm-1 2zm-5 9zm-3 0zm-31-10zm-12 4zm-1 4zm-3 0zm0-4zm-1 2zm-1-4zm-2 5zm-1 5zm-6 1zm-2-4zm0-10zm-11 8zm-2-2zm-3-5zm-3 11zm-4-3zm-1 2zm-9 3zm-1-8zm0 6zm-1-9zm-2 10zm-1-7zm-3 6zm-5-9zm-2 5zm-1-4zm-2-2zm-1 4zm-1 3zm-10-9zm0 5zm-82 7zm-4 0zm-2-7zm0-2zm-1 4zm-1 6zm-2-9zm0-2zm-1 11zm-2-2zm0-8zm-1 4zm-2-2zm-3 4zm0-2zm-3 3zm-5 2zm-3-8zm-1-1zm-1 5zm0-2zm0 7zm-6-10zm-2 9zm0-8zm-1 8zm-5-8zm-4 5zm-2 2zm-1-3zm-2-6zm-4 5zm-21 18zm2 1zm7-1zm0-8zm2-1zm3 3zm0-2zm2 2zm0 3zm1-6zm1 4zm2 1zm0 5zm2-4zm1 2zm1-4zm1 2zm0-4zm0-2zm1 4zm1 7zm5-5zm3 1zm0 4zm9-5zm2-6zm1 6zm0 2zm1 3zm4-4zm5 2zm2 2zm0-3zm2-5zm1-3zm2 12zm1-2zm2-7zm1 7zm4-6zm1 4zm2-9zm1 8zm1-6zm2 5zm1 2zm0-9zm2 8zm1-4zm1-1zm2 3zm0-3zm3 2zm83-3zm7 1zm5 1zm3 3zm3-2zm2 2zm2 5zm2-7zm1 8zm2-6zm1-3zm3-4zm3 8zm4-5zm7 5zm3-5zm28 7zm11-8zm25 3zm1-3zm2 6zm1-2zm6-5zm1 4zm2-6zm0 9zm10-1zm6-2zm2 3zm2 4zm4-3zm2-2zm1 4zm1-7zm2 8zm0-5zm3-8zm1 4zm4-2zm2 8zm3 2zm2-6zm0 5zm3-1zm1-7zm1 10zm5 8zm0 4zm-1-2zm-3-1zm-2-7zm-2 6zm-1-5zm-2 4zm-1-2zm-9 4zm-2 3zm-2-3zm-1-7zm-3 4zm-1 3zm-4 4zm-5 1zm-4-4zm-3-7zm-2 7zm0-5zm-2 3zm-1 4zm-2 1zm-1-3zm-1-4zm-2 7zm-1-6zm-3 3zm-4-1zm-40-2zm-3-2zm0 4zm-2-5zm-16 7zm-8 2zm-19-7zm-4-3zm-5 2zm-1-3zm-2 3zm-7 1zm-85 0zm-9 0zm-2 5zm-2 3zm-2-12zm0 3zm-1 2zm-2-3zm-3 8zm-1-3zm-1-2zm-2 1zm0-3zm-1-3zm-4 0zm0 10zm-2 1zm-1-2zm-1-3zm-1 5zm-1-7zm-1 9zm0-7zm-6 2zm-1-3zm-1 2zm-1 1zm-3-2zm0-7zm-2 3zm-3 9zm-1-1zm-1-5zm-4 1zm0 4zm-1 2zm0-8zm-3 9zm-7-4zm-1 1zm-1-1zm-1-3zm0-2zm-2 5zm0-3zm-1 2zm0 4zm-2-3zm-7 2zm0-7zm-1 5zm-1-2zm-2-3zm0-3zm-3 10zm0-11zm-1 4zm-1 8zm0-13zm-1 3zm0 2zm-1 7zm-1-5zm0 6zm-1-7zm-7-2zm-1 5zm-2 12zm7-6zm2 11zm4-5zm1 6zm1-12zm1 7zm4-8zm0 11zm2-6zm2 5zm2-3zm1-3zm0-2zm1 7zm2-8zm1 2zm2-1zm1 3zm1 3zm1-7zm1 9zm2 3zm2-10zm3 6zm1-5zm4 1zm2-1zm2 3zm0-6zm4 6zm3 7zm1-7zm7-3zm1 8zm1-9zm1 6zm0-4zm2 6zm0-3zm2-5zm2 4zm0 3zm1-6zm4-4zm7 5zm2 9zm2-13zm5 6zm4 0zm4-3zm12 0zm87-1zm15 0zm3 4zm4-6zm14 5zm11-6zm44 9zm3-2zm0 2zm0 3zm8-7zm4 3zm4-3zm4-1zm3 7zm1-6zm6-2zm1 4zm3 2zm5-8zm2 8zm4 2zm0-6zm9-1zm1 3zm4-6zm1 5zm-20 9zm-4 6zm0-3zm-5 5zm-1-6zm0 10zm-4-6zm-4-2zm-2 0zm-2 8zm-3-5zm-5-3zm0-3zm-1 9zm-3-7zm-4 6zm0 4zm-12-3zm-178-6zm-6-2zm-3 4zm-8 0zm-9 4zm-2-5zm-1-2zm-1 8zm-4 0zm-3-6zm-1 1zm-2 3zm0-8zm-1 3zm-1-5zm-2 1zm0 3zm-1 5zm-1 4zm0-8zm-2 7zm0-8zm-3 6zm0 3zm-2-12zm-1 4zm-2-1zm-2 9zm-9-10zm0 4zm-3 6zm-6-13zm-2 6zm-2 7zm-2-7zm-2 1zm-3-5zm-1 9zm-1-6zm-1-4zm-1 13zm-1-12zm-2-1zm-4 6zm-4 6zm0-7zm-2 6zm-6-8zm0 2zm-3 10zm6 6zm1-3zm1 5zm0-6zm6 6zm1-5zm1 7zm1-5zm0-6zm2 8zm4-3zm0 7zm1-4zm1 2zm0-5zm4 7zm1-7zm4 3zm2-1zm2 0zm1-2zm3 1zm1-6zm1 10zm0 2zm1-12zm2 2zm1-2zm3 0zm6 13zm0-2zm1-4zm2 1zm2 2zm2-6zm2 7zm5 1zm1-9zm4 5zm0-6zm3 6zm2-8zm17 12zm9-4zm4-5zm3 5zm135 3zm3-2zm9 3zm3 1zm5 0zm7-9zm2 8zm3-1zm1-5zm2 7zm7-2zm14-5zm5 3zm1 3zm4-11zm2 0zm3 2zm6-2zm4 1zm2 1zm2 3zm1-7zm2 2zm1 6zm3-4zm9-3zm-30 15zm-8 6zm-1 3zm-1-10zm-2 5zm-1-5zm-1 4zm0 9zm-2-11zm-3 8zm0-4zm-6 3zm-2-3zm-1 2zm-9-8zm-2 4zm-3 5zm-2 3zm-3-4zm-2-3zm0 6zm-1-3zm-3 4zm-1-7zm-8-2zm-1 9zm0-3zm-6-9zm-8 5zm-11 5zm-5-3zm-3 1zm-6-1zm-4 3zm-88-3zm-7-3zm-1 3zm-4 5zm-1-6zm-10 3zm0 3zm-9-2zm-4 0zm-5 0zm-1-4zm-6 6zm-2-7zm-1-5zm-1 4zm-10 1zm-6 3zm-3 5zm-1-6zm-4-5zm-1 4zm-1 6zm-6-12zm-3 12zm-1-2zm-1-7zm-3 1zm-5-4zm-5 1zm11 24zm1-11zm4 11zm5-7zm2 8zm1-9zm1 7zm7-6zm3-1zm2 3zm2 4zm2 2zm3-4zm0-5zm1-2zm0-2zm3 2zm1 10zm2-6zm1 5zm3 1zm3 0zm6 0zm4-5zm2 2zm6-1zm14-5zm1 9zm0-4zm6-6zm4 6zm6-5zm4 2zm2 7zm0-3zm4 4zm2-2zm2 2zm33-4zm6-3zm9-2zm2 3zm8-4zm8 2zm0 3zm3 2zm0-7zm2 10zm0-2zm1-9zm2 5zm1-2zm1 7zm3-1zm5-10zm5 11zm4-2zm4-8zm2 10zm1-6zm4 7zm2-6zm9 1zm1-2zm0 7zm1-3zm2 4zm2-5zm3-5zm4 10zm3-2zm8-9zm0 2zm2 4zm2-8zm1 12zm2-10zm3 0zm1 5zm2-7zm1 2zm2 1zm-11 12zm-3 0zm-1 3zm-1-3zm-2 4zm-2 1zm-1-6zm0 3zm-3 0zm-3 7zm-5 0zm-4 1zm-9-11zm-1 6zm-4-6zm-2 6zm-3-4zm-1 4zm-7 2zm-1-5zm-3 2zm-4 2zm-7 3zm0-4zm-1 7zm0-11zm-1 8zm0-10zm-2 0zm-2 11zm-1-10zm-7 5zm-1-5zm-3 0zm-2 7zm-5-5zm-1 3zm-1-7zm-1 11zm-5 3zm-6-4zm-2 2zm0-6zm-6 6zm-6-7zm0-4zm0 7zm-3 5zm-7 1zm-3-7zm0 6zm-1-4zm-1-2zm-5 1zm-7-5zm-4-1zm-3 11zm-10 1zm-1-6zm-5-1zm-1-2zm-2-2zm-1 6zm-2-4zm0 3zm-1 2zm0-7zm-3-3zm-3 8zm-1-7zm-2 5zm-4 0zm-2-2zm-3 3zm-1 7zm-3-8zm0 4zm-1 2zm-1-10zm-8 3zm-2-3zm-1 4zm-4 0zm-2-2zm-1 2zm-2-1zm-4 3zm0 4zm-2-7zm-4 4zm-6-1zm-9-4zm-3 1zm-2-2zm17 15zm6-2zm8 6zm2 3zm3-3zm0 3zm3-10zm0 12zm0-2zm1-4zm4 3zm1-6zm14-2zm2 6zm1 4zm2-4zm7-8zm8 6zm1 6zm2-11zm1 2zm2-1zm6 11zm1-8zm1-3zm0 9zm10-9zm1 10zm3-5zm4-4zm4 7zm0 3zm2-1zm4-8zm6 9zm4-7zm1 5zm6-5zm1-6zm6 7zm1 3zm1-6zm2 3zm5 3zm2 2zm0-8zm2 1zm3-4zm2 3zm6 9zm1-13zm12 6zm5-5zm4 5zm2-4zm2-1zm0 7zm1-3zm25-4zm84 10zm72 0zm1 3zm1-2zm4 1zm2-1zm1-3zm2 3zm-7 5zm-12-2zm-4 13zm-6-4zm-9 0zm-7 1zm-18-2zm-3 0zm-7 1zm0-8zm-8 4zm-10 1zm-3 4zm-1-8zm-2 7zm-11 3zm-5-1zm-11 0zm-38-4zm-13-1zm-2 0zm-52-3zm-4-3zm-3 6zm-1-7zm0 3zm-3-3zm-2 5zm-2-2zm0 6zm-8-3zm-1-5zm-3 8zm-1-3zm-5-2zm-1 8zm-1-3zm-5-5zm-1-4zm-2 7zm-1 7zm-6-6zm-2 2zm0-5zm-4-2zm-3 6zm-6-4zm-3-2zm-5 7zm-3 0zm-1-9zm-5 11zm-5-6zm-3-2zm-10-1zm-3 4zm-1-3zm-2-3zm0 5zm-3-2zm-6 0zm169 13zm2-1zm1-1zm42 8zm1-7zm2 1zm0 9zm9-10zm0 3zm2 1zm6-1zm0 4zm4-4zm3-4zm3 1zm14 8zm4-2zm5-5zm12 4zm2-4zm7 4zm2 5zm5-3zm1 2zm8 1zm12-11zm3 12zm14 13zm-8 0zm-2-11zm0 2zm-4 2zm-6 4zm-3 1zm0 4zm-2-11zm-2 9zm-1-3zm-2 1zm0 4zm-5-3zm-1-7zm-4 10zm-1-7zm-1 5zm-12 1zm-11-4zm-4 3zm-18-5zm-6 5zm0-8zm-4 4zm-1-4zm-2 1zm-1-3zm-4-1zm-12 4zm-171 20zm4 2zm6-11zm8 10zm138-4zm20-2zm5 2zm3 3zm8-6zm1 3zm1-2zm3-2zm3 2zm1-3zm3 7zm3-5zm4 7zm0-10zm4 8zm4-6zm0 7zm2-5zm1 2zm9 5zm1-12zm0 2zm3 10zm3-10zm6 2zm4-3zm4 11zm3 0zm7-2zm0 3zm3-11zm3-1zm2 9zm5 3zm4-6zm6-4zm7-4zm-8 25zm-4-6zm-1-2zm0 7zm-3-5zm-3 7zm-13-3zm-2 2zm-3 0zm-1 1zm-2-6zm-2-2zm-6 3zm-4-6zm-1 6zm-2-4zm-2 11zm-6-11zm-1 11zm-2-14zm-1 6zm0 5zm-1-11zm-1 3zm-8-2zm0 5zm0 5zm-2-7zm-1 6zm-1 2zm-1-6zm-1 3zm-1 3zm-2 1zm-3-10zm-1 2zm-2-2zm-1-3zm-15 2zm-12-1zm-1 11zm-4 2zm-135-6zm-7 1zm-3 1zm-9-5zm-11 5zm-21 16zm5 1zm13-2zm12 1zm1-2zm7 1zm2 3zm19-3zm25-5zm15 8zm12-1zm39 1zm7-8zm3 1zm3 2zm12-9zm6 1zm3 0zm1 2zm9 1zm6 1zm4-2zm2-3zm4 2zm0 5zm1 2zm1-5zm3 9zm1-6zm12 6zm0-8zm4 8zm1-3zm1-8zm1 2zm4 4zm3 5zm2-3zm2-3zm1-2zm2 5zm0-9zm8 12zm0-5zm2 3zm1-6zm1 2zm3-3zm2 4zm0 3zm1-11zm7 12zm2-4zm1 5zm6-13zm2 13zm4-9zm1 6zm4-5zm0-4zm3 0zm-14 13zm-11 6zm-6-4zm-3 4zm-4-4zm-3 9zm-4-7zm0-2zm-1 5zm-1 6zm-1-10zm0 8zm-4 2zm-1-8zm-4 3zm-3-2zm0 3zm-5 0zm-5-6zm-22 2zm-3 4zm-3 1zm-1-5zm-1 9zm-1-6zm-5-7zm-3 0zm0 2zm-3 7zm-11-4zm-1 3zm0 4zm-1-11zm-1 6zm-11-6zm-19 11zm-3 0zm0-5zm-9-6zm-26 3zm-2-2zm0-2zm-3 5zm-3 2zm-2-3zm-1 4zm-2 2zm-48-4zm-6-4zm-25 10zm-1-9zm0 8zm-4-9zm-2 6zm0-5zm-1 4zm-3 2zm-4 1zm6 4zm2 2zm27 5zm2 3zm4-4zm0-3zm44 0zm3 10zm2-11zm2-2zm4-1zm0 5zm2-1zm4 3zm3-6zm3 9zm5-5zm1-4zm8 3zm8 0zm7 6zm6-2zm0-7zm1 2zm18-1zm8-1zm12 5zm17-3zm1 2zm3-1zm1 2zm4-4zm2 2zm4-2zm1 2zm-19 22zm-21-5zm-5 0zm-1 1zm-6 5zm-5-9zm-3 3zm-1-4zm-4-1zm0 9zm-1-3zm-3 6zm-1-8zm-6-6zm-4 0zm-6 11zm-2-6zm-6 1zm-2-4zm-4 9zm0-2zm-15-2zm-7-1zm-3-1zm0 3zm-1-6zm-1 11zm-2-11zm-13 7zm-18 2zm-5-3zm-14 5zm-11-3zm-2-1zm-3 2zm-2-2zm-2-5zm-2-2zm0 10zm-2 1zm11 6zm1-4zm5 2zm14-1zm4-2zm11 4zm1 9zm26-7zm1 3zm2-4zm2 3zm3 5zm0-6zm7 2zm5-1zm1-1zm10-1zm4 1zm76-4zm0 4zm1 3zm0-9zm1 7zm2 4zm3-2zm2 0zm4-8zm0 3zm1 4zm0-7zm3 3zm1 2zm1-2zm-123 15zm-7-2zm-17 7zm-4-3zm-2 3zm-10-5zm-1-2zm-17 10zm-4-13zm-9 15zm23 1zm5 4zm28-4zm4-3z" stroke="#BEBEBE" stroke-width="6.7" stroke-linecap="round" fill="none"/><path d="M226 1849zm14 9zm9 13zm-15-5zm-4-1zm-40 24zm25-4zm62 6zm-25 0zm-49 10zm38 8zm67 18zm27 57zm198 17zm-26 7zm1 4zm73 21z" stroke="#CDA8A1" stroke-width="6.7" stroke-linecap="round" fill="none"/><path d="M241 1849zm-6 18zm-31 2zm26 24zm358 131zm-94 3zm-166 30zm251-11zm-23 15zm-227 4zm120 14z" stroke="#EC7C66" stroke-width="6.7" stroke-linecap="round" fill="none"/><path d="M382 1850zm-72 47zm161 8zm-148 138zm14 51zm16 5zm12 12zm-8 3zm-1-12zm-12 12zm-11-1zm0-13zm-8 9zm-3-8zm-3 10zm-5-4zm0 7zm8 12zm1-3zm22 4zm2-12zm3 0zm10 3zm3 8zm7-7zm3 0zm6 8zm-60 2z" stroke="#F25B47" stroke-width="6.7" stroke-linecap="round" fill="none"/><path d="M239 1837zm-19 22zm31 15zm-45 14zm15 5zm85 19zm-85-8zm369 71zm16 38zm-83 9zm36 21z" stroke="#CDA8A1" stroke-width="6.7" stroke-linecap="round" fill="none"/><path d="M363 2044zm-14 58zm-7 6zm-1-4zm-1-3zm-4 12zm-13 1zm-1-2zm-18-7zm22 13zm14-2zm4 8zm11-9zm6 0zm10 3zm-5 10zm-13 1zm-4 0zm-3 0zm-1 5zm-8-3zm-8-1z" stroke="#F25B47" stroke-width="6.7" stroke-linecap="round" fill="none"/><path d="M390 1805zm8-2zm16-3zm6 3zm3-2zm5 1zm1-3zm4 2zm4 1zm5-7zm3 2zm3 2zm3 0zm3 0zm2 3zm2-1zm2-6zm3 8zm1-4zm2 6zm1-7zm9-2zm6 5zm3 5zm13-2zm38 13zm-4-3zm-1 4zm-2-3zm-4-2zm-3-2zm-7 1zm-1-4zm-5 3zm-2 2zm-7-1zm-6 0zm-2-3zm-4 8zm-9-3zm-7-1zm0 6zm-1-11zm-7 2zm-2 5zm-10-9zm0 9zm-4-2zm0 5zm-2-7zm-3-3zm-2 4zm-3 4zm-1-3zm-6 5zm-1-8zm0 6zm-3-4zm-8-4zm-1 11zm-4-8zm-2 4zm-9 1zm-3-6zm-6 0zm0-3zm-3 3zm-1-3zm-2 7zm0-5zm-2-2zm-4 4zm-3 9zm-5-10zm-1 3zm-2-2zm-2 5zm-6-1zm-8 4zm-111 13zm2-3zm111-8zm0 5zm7-4zm6 5zm7-5zm3 9zm0-8zm1 3zm3 0zm2-1zm5 0zm2 7zm16-5zm3-1zm2-6zm1 6zm1 3zm4 2zm5-8zm5 2zm4 4zm5-8zm1 10zm2-4zm4 2zm4-7zm4 5zm2 5zm3 1zm8-5zm2-7zm11 1zm13 3zm0-3zm8-1zm4 10zm4 2zm1-11zm1 6zm2-8zm2 12zm9-11zm2 2zm3 1zm1 3zm0-6zm1 2zm0 8zm4-4zm3 5zm0-10zm6 24zm-4-3zm-3-4zm-1 4zm-5-3zm-1 7zm-9-13zm0 9zm-2 2zm-1-7zm-4 0zm-2 7zm-2 2zm-2-11zm-3-1zm0 2zm-3 3zm-2 4zm-1-7zm-1 9zm-3-3zm0 3zm-3-3zm-4-2zm-40-5zm0 3zm-5-5zm-6 5zm-1 6zm-2-11zm-1 3zm0 9zm-10-8zm0 10zm-3-7zm-6 1zm-1 4zm-2-2zm-1-4zm-5 8zm-3-6zm-1 5zm-1-2zm0-6zm-4-1zm-6 0zm-2-1zm-1-2zm-3-1zm-3 6zm-3 7zm-3-1zm-88 1zm-13-3zm-1-4zm-1 2zm-1-6zm-1 3zm0-4zm-4 5zm-1-2zm-1 1zm-1-4zm-1 1zm-2 10zm-2-7zm-2 1zm-1 5zm-1-9zm0 12zm-1-4zm-3-9zm-1 11zm-4 1zm0-3zm-2-1zm-6-9zm0 11zm-3 3zm-3-12zm-3 9zm-6 2zm0-3zm-1-2zm-2 5zm-3 0zm-10 9zm1 5zm1-2zm2 1zm7-11zm3 5zm2 7zm0-9zm3 0zm5 6zm1-2zm0-4zm0-3zm4 3zm0 2zm2 5zm1-6zm1-4zm1 3zm0 4zm5-8zm1 2zm2 8zm0-10zm5 2zm0 11zm0-3zm2-5zm1-1zm3 5zm5 2zm2-10zm0 2zm5 0zm2-3zm1 9zm0 4zm3-5zm2-3zm1 6zm1 0zm1-6zm2 7zm5-3zm1 2zm1-2zm79-7zm19-1zm0 12zm1-3zm1-6zm2-3zm3 1zm0 8zm3-9zm1 9zm5 1zm4 1zm0-11zm1 5zm4-5zm1 8zm1 2zm10-10zm59 0zm2 8zm6-5zm0 4zm1 4zm6-7zm3 8zm0-9zm4 4zm0 4zm6-9zm1 10zm7-3zm5-8zm7 7zm3 1zm6-10zm3 2zm1 11zm4 6zm-12 3zm-1-3zm-7 8zm0-8zm-3 2zm-8-5zm-10 4zm-3 8zm-6-7zm-6-2zm-1-3zm-5 12zm-1-13zm-1 10zm-36-7zm-7-3zm-3 6zm-21 7zm-4-7zm-6 3zm-9 3zm-2-7zm-2-3zm0-3zm-1 7zm0 7zm-2-4zm-2-3zm-2 3zm-88-1zm-5 4zm0-5zm-3 5zm-2-7zm-3 7zm-5-1zm-4-3zm-3-9zm-1 12zm0-10zm0 12zm-3-4zm-2-10zm-2 4zm-3-4zm0 4zm-2 6zm-4 1zm0-9zm-2 9zm-4 2zm-2-12zm-2 3zm-1 2zm-2 2zm-2-4zm0 4zm-2 5zm0-5zm-1-4zm0 8zm-1-4zm-2-5zm-1 0zm-1 5zm-1 4zm-3-7zm0 8zm0-11zm-1 4zm0 5zm-1-3zm-1-2zm0-4zm0 9zm-2-4zm-3 5zm-7-7zm-2 7zm0-2zm-5-6zm-4-4zm-4 10zm-1-1zm-1-8zm-1 1zm-2 7zm-3-2zm-3 6zm-2-4zm-4 19zm3-10zm6 10zm3-10zm0 6zm2 4zm0-12zm0 7zm1-6zm1-2zm6 7zm2-6zm4 1zm0-2zm1 0zm0 11zm2-12zm1 6zm0 6zm1-8zm2 2zm1 3zm0-8zm1 7zm3 5zm10 1zm1-7zm1-4zm1 7zm2-4zm0 2zm0-6zm1 8zm2 0zm1-6zm0-2zm1 7zm1 3zm0-1zm1-2zm1 2zm0-6zm2 5zm2-5zm0-4zm0 2zm1 6zm3 4zm0-11zm3-1zm1 12zm2 0zm1-8zm1-5zm0 11zm1-9zm4 0zm2 7zm2-8zm1 4zm2-4zm2 2zm8 6zm1-9zm1 5zm1 8zm4-11zm1 11zm13-5zm105-5zm4 2zm11-3zm1 7zm5-2zm5-6zm2 1zm2 1zm43 11zm8-14zm5 11zm0-9zm2 8zm3-3zm4 3zm1 2zm2-6zm3 3zm1-4zm1-3zm0 9zm4-6zm1 7zm6-7zm1 3zm1 3zm2-4zm2-6zm15 8zm2-7zm4-2zm-19 26zm-1-10zm-3 1zm-5 7zm-6-3zm-5 4zm-1-9zm0 3zm-4 4zm-2 3zm-3-6zm-4-6zm0 4zm-2 3zm-3 1zm-6-2zm-6 2zm0 5zm-3-2zm-3-3zm-2 6zm0-3zm-168 2zm-3-7zm-5 1zm-2-7zm-7 4zm-3-1zm-13 3zm-1-2zm-1-3zm-4 12zm-1-4zm0-4zm-4-4zm-2 2zm-4 10zm-3-6zm0-3zm-4-1zm-1-1zm-1 6zm-1 2zm0-7zm-2 8zm0 2zm0-4zm-6 2zm-3 1zm-3-11zm0 10zm-4-10zm-1 5zm0 8zm-2-14zm-1 6zm-1-4zm-2 7zm-3-1zm-5-4zm-1 3zm0 2zm-1-5zm-1 10zm-4-1zm-1-7zm-1-3zm0-2zm-3 0zm-2 8zm0-2zm-6 4zm-6-6zm-3 3zm1 13zm0 1zm2-4zm5-1zm3 0zm3-2zm0 7zm1-5zm3 7zm3-6zm3 3zm1 4zm4-3zm1-2zm1 2zm4-5zm1 8zm0-5zm1 7zm2-9zm4 9zm5-2zm3-8zm1 3zm1 3zm3-8zm6 5zm0 6zm4 2zm10-3zm3-11zm1 4zm0-2zm2 11zm4-8zm5 4zm1-7zm23 4zm13-3zm1 8zm120 1zm8-2zm2 0zm0-2zm4 2zm1-4zm2 4zm4 0zm0-2zm6-4zm1 7zm1-9zm3 2zm1-4zm5 11zm1-4zm1-4zm2 7zm0-6zm0 2zm5 5zm1-8zm1-3zm5 4zm7 8zm6-8zm2 3zm10 4zm4-1zm3 3zm2-10zm-10 11zm-9 11zm-1-6zm-2-2zm-3 2zm-2 7zm-3-1zm-2 2zm-5-1zm-5-1zm-1-7zm-2 10zm-2-9zm-2-2zm-8 0zm-5-3zm-5 3zm-4 0zm-2 2zm-1 2zm-6 5zm-1-9zm-2 6zm-3-2zm-3-6zm-3 12zm-2-11zm-3 11zm-3-6zm-1-3zm-3 1zm0 8zm-5-1zm-1-7zm-27 7zm-68-2zm-1-5zm-7 1zm-6 6zm-1-7zm-1 4zm-1 2zm-1-10zm-1 4zm-1 7zm-1-4zm-2 4zm-8-3zm-1 2zm-2-2zm-5-3zm-1 2zm-3 2zm0-2zm-6 4zm-1-6zm-2-3zm-2 10zm-2-5zm-3 3zm-4-8zm-1 10zm-2-10zm-9 1zm-1 8zm-9-10zm0 2zm-1 3zm-5-1zm0-3zm-3 9zm0-3zm-3 12zm5 2zm2-5zm1 3zm1-5zm1 8zm2-9zm2 5zm3 1zm3-6zm0 12zm4-3zm0-8zm0 5zm3 3zm5-6zm1 7zm2 1zm2-8zm0 5zm2 5zm1-7zm2 1zm2-3zm2 2zm1-3zm1-2zm2 3zm1 3zm5-2zm6-1zm1-2zm1 3zm2-4zm10-2zm2 6zm1-4zm0 11zm1-3zm6-4zm0 3zm0 4zm3-3zm3-9zm3 3zm5 7zm4-4zm3 4zm39 1zm2-5zm0 6zm5 0zm1-5zm1-4zm4 7zm2-11zm4 4zm0 3zm1-6zm2 5zm2 4zm2-4zm3-3zm8 2zm6 0zm3 9zm1-9zm3 3zm2-2zm1-4zm4 2zm1 3zm10-6zm8 7zm4-6zm4 1zm3 10zm3-3zm3-10zm15 3zm2 3zm1 4zm22-9zm-35 21zm-8-4zm-3-3zm-3 1zm-1 6zm0 6zm-1-3zm-2 1zm-4 0zm-4-4zm-1 3zm-1 2zm-2-5zm-1 2zm-2 4zm-1-3zm-3-2zm-3 2zm-4-2zm-2 4zm-2-11zm-2 2zm-1 4zm-1 3zm-7 2zm-5-7zm-1 7zm-3-8zm-2 8zm-5-2zm-3-3zm0-8zm-2 11zm-4 3zm-3-10zm-5 8zm-4-10zm-1 7zm-2-8zm0 3zm-5 0zm-3-1zm-4 7zm-4-1zm0-3zm-3-2zm0 4zm-3-3zm-3 4zm0 3zm-1-6zm-6 2zm0 1zm-4-2zm-5 0zm-4-5zm-1 3zm-1 8zm-3-2zm-5 0zm-3-9zm0 7zm-8 5zm-2-1zm-3-10zm-2 11zm-1-4zm-5 2zm-2-3zm-2-9zm-1 10zm-3 2zm-1-8zm-4 8zm-1-11zm-2 7zm-2-8zm-4 12zm-4 1zm-1-3zm-6-9zm-3 1zm-1 6zm-3 4zm-6-10zm-1 2zm-2 7zm-1-3zm0-2zm-4 1zm9 9zm4 0zm3 3zm3 5zm0-2zm14-3zm2 8zm1-11zm14 2zm3 0zm5 6zm1-5zm1-3zm2 11zm1-3zm2-7zm0 5zm2-6zm0 7zm1 3zm1-5zm1-6zm1 9zm2-7zm1 6zm0-2zm3 2zm3 5zm1-3zm9-6zm5 6zm3-6zm3-1zm4 8zm1-3zm3-7zm3 6zm2 5zm2-11zm1 4zm0 8zm3-11zm1 4zm6-2zm6 3zm3 4zm1-4zm7-5zm2 4zm6-5zm0 10zm6-12zm0 6zm1-4zm5 3zm10 4zm11 1zm4 0zm5-5zm5-3zm3 2zm0-3zm94 8zm4 3zm2-2zm42 2zm23 0zm9-1zm2 3zm5-5zm-12 8zm-2 2zm-1-3zm-2 3zm0-4zm-5 5zm-1-3zm-2 8zm-1-6zm-1-2zm-1 3zm0 7zm-11-8zm-13 7zm-2-6zm0 7zm0-3zm-10 4zm-6-8zm-15 1zm-38 4zm-16 2zm-27 0zm0-7zm0 2zm-2 4zm-58-12zm-4 1zm-12 3zm-1 3zm-5-1zm-6 2zm-8 0zm-6-6zm-2 11zm-1-5zm-1 5zm-4-3zm-2-5zm-1 7zm-4-10zm-10 4zm-8 4zm-1-7zm-3 2zm-4 6zm-5-10zm-1 8zm-8-3zm-2 3zm-1-4zm-2 3zm-3-1zm-9-5zm-2 3zm-1-2zm-2-2zm-3 2zm67 11zm96 1zm2 2zm10-1zm2 0zm4 0zm2-1zm34 5zm1 8zm3-14zm4 7zm0-3zm1 9zm0-2zm2 2zm3-5zm2-1zm4 5zm4-1zm2-8zm5 4zm3-1zm2 5zm1-7zm0-3zm2 6zm2 5zm0-9zm2 2zm1 3zm1-2zm4 5zm6 2zm0-2zm4-4zm0 6zm3-8zm5 6zm0 3zm0-8zm2 6zm3 1zm4-4zm2 5zm3-11zm9 4zm3 1zm0 3zm3-7zm4 8zm3-8zm16 17zm0 2zm-4-2zm-4-4zm-1 7zm-3-2zm-6-8zm-1 5zm-3-1zm-2 3zm-8 2zm0-2zm-2-1zm-4-5zm-2 6zm-6 1zm-1 5zm-2-3zm0-3zm-1-7zm-1 2zm-8-1zm-1 9zm0-6zm-2 6zm-3 3zm0-10zm-3-2zm0 2zm-2 6zm-1 2zm-1 3zm-1-5zm-1 3zm-4 1zm-2-9zm-6 0zm-6 4zm-5-6zm-4 9zm0-3zm-3-1zm-10-2zm-46 2zm-120 12zm6 5zm123 2zm33 0zm0-3zm0-3zm3 2zm2 3zm2-3zm2-7zm4 12zm6-6zm3-3zm5 7zm0-10zm3 10zm8-10zm1 3zm3 10zm0-10zm3 8zm0-6zm0-2zm5-2zm1 8zm1-5zm1 8zm4 1zm5 0zm0-4zm2-8zm5 5zm3 6zm2-12zm5 1zm4 8zm2 1zm2 3zm3-6zm1-1zm7-1zm1 2zm1-4zm2 2zm0-4zm2-2zm2 8zm1 3zm3-6zm6 2zm-4 12zm-1 3zm-4 0zm-2 0zm-6 3zm-4-10zm-1 8zm-5 3zm-1-10zm-7 12zm-1-3zm-1-10zm-2 3zm-5 7zm-2 0zm-4-5zm-3 5zm-4-6zm-2 2zm-2-5zm-2 7zm-3-5zm-2 2zm-7 1zm-9 0zm-1-7zm-6 2zm-2 11zm-1-3zm-4-1zm0 3zm-1-10zm-1 8zm-5-4zm-1 5zm-1-5zm-1 2zm-1 4zm-5-9zm-9 9zm-4-1zm-2-6zm-137 8zm-15-13zm-2 14zm-21 13zm2-3zm3 2zm4 1zm22-7zm3 3zm0-5zm7 9zm84 0zm12-1zm2-5zm2 2zm1-3zm17 4zm2 1zm1 2zm3-8zm4-3zm3 4zm14 5zm0-10zm2 3zm13 1zm5 0zm1 6zm3 2zm1-2zm0-6zm3 4zm0-5zm3-2zm2 5zm1-6zm1 3zm4-1zm4 0zm1 2zm3 7zm8-4zm1-4zm2 5zm1-6zm5-1zm2 11zm1-8zm0-3zm5 12zm2-12zm1 10zm1-2zm1 3zm2-7zm2 3zm8 1zm2-5zm0 6zm2-7zm3 5zm1-2zm2-5zm3 0zm2 5zm0-3zm3 3zm-5 8zm-3 1zm-2 1zm-4 1zm-3 1zm-4-1zm-4 1zm-1-3zm-7-2zm-3 6zm-2 2zm-4-7zm-2 10zm-3-3zm-3 1zm-1-8zm-1 7zm-2-7zm-2 10zm-4-8zm0 8zm-1-4zm-3-2zm-21 1zm-2 5zm-3-3zm0 3zm-9-1zm-2 2zm-4-2zm-4 3zm-2-2zm-15-7zm-1 6zm-2 2zm-9-11zm-9 6zm-2-6zm-1 13zm-3-2zm-10-8zm0 10zm-3-3zm-8-11zm-31 1zm-5 10zm-46-9zm-5-1zm0 3zm-1 7zm-2 2zm-1-2zm-3-2zm-15-3zm0 6zm-1-2zm-2-4zm-3-1zm-1-4zm-2-1zm-2 9zm3 5zm1 2zm28 2zm48-2zm3 3zm1-4zm3 11zm1-5zm6-7zm4 4zm10 8zm4 1zm5-12zm2 6zm6 5zm0 2zm10-3zm6-9zm1 3zm2 7zm3-3zm1 2zm2-2zm2 0zm26-6zm6 3zm3 3zm1-3zm4 1zm8-6zm11 10zm1-10zm-10 16zm-4 11zm-32-3zm-2-7zm-4 6zm-5-2zm-1 6zm-3-4zm-3-1zm-5-5zm-7 7zm-8-2zm-5-1zm-1-8zm-3 11zm-3-11zm-15 12zm-1-7zm-2 8zm-2-12zm-1 9zm-2-3zm-5 7zm-7-10zm0 4zm-7 4zm-1-4zm-6-6zm-2 3zm-20 8zm-19-1zm-2-4zm-1 5zm-11 0zm-2-2zm2 16zm2-12zm9 1zm16-2zm4 12zm11-2zm32-5zm1 6zm9-4zm2-1zm0-3zm6 7zm4-3zm4-4zm1-2zm10 0zm31 1zm2-1zm3 2zm27 0zm1 7zm2-8zm2 3zm2 5zm1-7zm1 2zm3 1zm2-6zm1 7zm0 4zm1-11zm1 9zm2-2zm-123 10zm-6 7zm-4-7zm-20 10zm-8-6zm-6-3zm-5-1zm-11 9zm41 5z" stroke="#BEBEBE" stroke-width="6.7" stroke-linecap="round" fill="none"/><path d="M299 2097zm55 5zm-48 8zm-3-7zm9 12zm12 1zm3 8zm5 2zm5-3zm14 0zm-2 10zm-16-4z" stroke="#FF1A0A" stroke-width="6.7" stroke-linecap="round" fill="none"/><path d="M320 2048zm15 22zm12 25zm4 9zm-13-1zm-6 7zm-7 1zm-14-6zm-2 19zm0-8zm3 2zm4 6zm4 3zm30-7zm6-3zm2 6zm15-2zm2 3zm-32 4zm-10 4zm-8-1z" stroke="#F93B29" stroke-width="6.7" stroke-linecap="round" fill="none"/><path d="M278 1859zm218 0zm87 171zm-263 22zm30 40zm-45 0zm23 9z" stroke="#EC7C66" stroke-width="6.7" stroke-linecap="round" fill="none"/><path d="M210 1857zm34-5zm9 3zm6-2zm250 22zm-248-12zm-43 20zm3 5zm28-10zm26 12zm-56 1zm-2 3zm-14 9zm27 5zm52 66zm205 31zm54 5zm31 15zm-39-8zm-11 6zm-5-2zm-18 17zm43 1zm26-6zm20 20zm-52 9zm7 2zm3 3zm3-2z" stroke="#DD9283" stroke-width="6.7" stroke-linecap="round" fill="none"/></g><path d="M80.8 887.2V1079.2H327" fill="none" stroke="#000" stroke-width="1.8"/><text x="136.2" y="1099" font-size="15.6" text-anchor="middle" fill="#000">−4</text><text x="195.8" y="1099" font-size="15.6" text-anchor="middle" fill="#000">0</text><text x="255.4" y="1099" font-size="15.6" text-anchor="middle" fill="#000">4</text><text x="315" y="1099" font-size="15.6" text-anchor="middle" fill="#000">8</text><text x="71.8" y="931.4" font-size="15.6" text-anchor="end" fill="#000">5</text><text x="71.8" y="979.7" font-size="15.6" text-anchor="end" fill="#000">0</text><text x="71.8" y="1028" font-size="15.6" text-anchor="end" fill="#000">−5</text><text x="71.8" y="1076.4" font-size="15.6" text-anchor="end" fill="#000">−10</text><path d="M136.2 1079.2v4.4M195.8 1079.2v4.4M255.4 1079.2v4.4M315 1079.2v4.4M80.8 925.2h-4.6M80.8 973.6h-4.6M80.8 1022h-4.6M80.8 1070.3h-4.6" stroke="#000" stroke-width="1.8" fill="none"/><text x="202.7" y="1121.6" font-size="18.8" text-anchor="middle" fill="#000">UMAP_1</text><text x="39" y="982.7" font-size="18.9" text-anchor="middle" fill="#000" transform="rotate(-90 39 982.7)">UMAP_2</text><text x="199.3" y="880.6" font-size="22" text-anchor="middle" fill="#000">Pyy</text><linearGradient id="cg4" x1="0" y1="0" x2="0" y2="1"><stop offset="0" stop-color="#FF1A0A"/><stop offset=".5" stop-color="#EC7C66"/><stop offset=".92" stop-color="#BEBEBE"/><stop offset="1" stop-color="#BEBEBE"/></linearGradient><rect x="345.3" y="935.8" width="20.8" height="105" fill="url(#cg4)"/><text x="374.9" y="952.9" font-size="16.3" text-anchor="start" fill="#000">6</text><text x="374.9" y="971.7" font-size="16.3" text-anchor="start" fill="#000">5</text><text x="374.9" y="990.1" font-size="16.3" text-anchor="start" fill="#000">4</text><text x="374.9" y="1008.9" font-size="16.3" text-anchor="start" fill="#000">3</text><text x="374.9" y="1027.2" font-size="16.3" text-anchor="start" fill="#000">2</text><text x="374.9" y="1046" font-size="16.3" text-anchor="start" fill="#000">1</text><path d="M345.3 947.1h4.2M366.1 947.1h-4.2M345.3 965.9h4.2M366.1 965.9h-4.2M345.3 984.3h4.2M366.1 984.3h-4.2M345.3 1003.1h4.2M366.1 1003.1h-4.2M345.3 1021.4h4.2M366.1 1021.4h-4.2M345.3 1040.2h4.2M366.1 1040.2h-4.2" stroke="#fff" stroke-width=".7" fill="none"/><g transform="scale(.5)"><path d="M1082 2066zm91 0z" stroke="#EC7C66" stroke-width="6.7" stroke-linecap="round" fill="none"/><path d="M1163 1812zm-34 285zm-13 16zm50 7zm-7-2zm-16 0zm-3 0zm-1 4zm-10 5zm-4-1zm-17 2zm-3-7zm-4-4zm17 14zm2 4zm3 0z" stroke="#F25B47" stroke-width="6.7" stroke-linecap="round" fill="none"/><path d="M1097 2107zm11 6zm3-2zm22 2zm7 1zm25 9zm0-2zm-2-2zm-14 0zm0 7zm-11 0zm-5-11zm-3 0zm-1 4zm-16 3zm-10 1zm-9-1zm-2-3zm3 11zm5 2zm6-3zm49-1z" stroke="#F93B29" stroke-width="6.7" stroke-linecap="round" fill="none"/><path d="M1179 1806zm2-1zm6-3zm1 2zm2-3zm6 5zm3-2zm3 1zm12-9zm3 3zm3-3zm5 3zm10-5zm1 8zm2-6zm2-2zm11 1zm2 9zm25-1zm8 1zm21 15zm-6-9zm-1 9zm-3-4zm-4-6zm-1 11zm-2-10zm-2-2zm-1 5zm-1-2zm-3 6zm-1-8zm-1-3zm0 6zm-1 7zm-3-11zm-9 1zm0 3zm-7 5zm-2-4zm-2 5zm-6-9zm-3 4zm-4-7zm-15 1zm0 9zm-7-9zm-2 11zm-1-9zm-9 1zm-1-2zm-2 4zm-1 6zm0-2zm-2-6zm-4 1zm-1-3zm-1 8zm-14 1zm-3 2zm-1-11zm-3 8zm0-4zm-4 1zm-2-2zm-5 4zm-2-6zm-11 0zm-1 5zm-9 6zm-2-5zm-3 1zm-124 17zm8-1zm3 0zm7-3zm5 2zm13 2zm2-3zm81-8zm3-1zm2 3zm7-3zm2-1zm4 0zm0 6zm3 5zm1-9zm13 7zm8 1zm4 1zm0-3zm3-3zm0 5zm3-5zm1 8zm2-7zm1 5zm0-10zm0 3zm3 9zm6-1zm2-5zm0-5zm0 8zm3-1zm1-6zm1 9zm5-1zm2-2zm3-5zm1 7zm1-10zm2 9zm1-3zm9 7zm0-3zm1-4zm2 3zm2-5zm0 8zm8-5zm2-2zm4 6zm4-8zm6-3zm12 4zm1 6zm1-8zm5 5zm6 5zm4-4zm3-1zm2 2zm2 1zm5-2zm4-8zm10 8zm3 1zm0-9zm4 5zm11 22zm-8-7zm-1 5zm-4-11zm-2 2zm-6-1zm-2-2zm-1 13zm-2-7zm-1 6zm-3-4zm-4-2zm0 4zm-1-9zm-2 4zm-2 4zm-2-5zm-1 10zm-2-4zm-1-5zm0 7zm-1-4zm-5-8zm-2 2zm-5 9zm-3 0zm-30-10zm-13 4zm-1 4zm-3 0zm0-4zm-1 2zm-1-4zm-2 5zm-1 5zm-6 1zm-2-4zm0-10zm-11 8zm-2-2zm-3-5zm-3 11zm-3-3zm-2 2zm-9 3zm-1-8zm0 6zm-1-9zm-2 10zm-4-1zm-5-9zm-2 5zm-1-4zm-2-2zm-1 4zm0 3zm-10-9zm0 5zm-83 7zm-4 0zm-2-7zm0-2zm0 4zm-2 6zm-1-9zm-1-2zm-1 11zm-2-2zm0-8zm0 4zm-3-2zm-3 2zm-3 3zm-5 2zm-4-9zm0 5zm-1-2zm0 7zm-6-10zm-1 9zm-1-8zm-1 8zm-5-8zm-4 5zm-2 2zm-1-3zm-2-6zm-4 5zm-21 18zm2 1zm7-1zm1-8zm1-1zm3 3zm1-2zm1 2zm0 3zm1-6zm2 4zm0-5zm1 6zm0 5zm3-2zm1-4zm1 2zm0-4zm1-2zm1 4zm0 7zm6-3zm2 3zm2-3zm2-9zm5 7zm2-6zm1 6zm1 5zm1-5zm8 3zm2 2zm0-3zm2-5zm1-3zm2 12zm1-2zm2-7zm2 7zm3-6zm1 4zm2-9zm1 8zm2-6zm1 5zm1 2zm0-9zm2 8zm3-5zm1 3zm3-1zm83-3zm7 1zm0-2zm5 3zm3 3zm3-2zm3 2zm1 5zm3-7zm1 8zm1-6zm1-3zm1 3zm2-7zm3 8zm5-5zm6 5zm3-5zm28 7zm11-8zm26 3zm0-3zm2 6zm2-2zm5-5zm1 4zm2-6zm0 9zm10-1zm8 1zm2 4zm4-3zm2-2zm1 4zm2-7zm1 8zm0-5zm3-8zm1 4zm4-2zm2 8zm4 2zm1-6zm0 5zm3-1zm1-7zm1 10zm5 8zm0 4zm-1-2zm-3-1zm-2-7zm-2 6zm-1-5zm-2 4zm-10 2zm-2 3zm-2-3zm-1-7zm-3 4zm-1 3zm-4 4zm-5 1zm-4-4zm-3-7zm-1 7zm-1-5zm-2 3zm-1 4zm-2 1zm-1-7zm-2 7zm-2-6zm-3 3zm-4-1zm-40-2zm-2-2zm-1 4zm-1-5zm-16 7zm-9 2zm-19-7zm-4-3zm-5 2zm-1-3zm-2 3zm-6 1zm-86 0zm-9 0zm-2 5zm-1 3zm-2-12zm-1 3zm-1 2zm-5 5zm-1-3zm-1-2zm-2 1zm0-3zm-1-3zm-3 0zm-1 10zm-2 1zm0-2zm-2-3zm-1 5zm-1-7zm0 9zm0-7zm-7 2zm-1-3zm0 2zm-2 1zm-2 0zm-1-2zm0-7zm-2 3zm-3 9zm-1-1zm-1-5zm-2 7zm-2-6zm0 4zm-1 2zm0-8zm-2 0zm0 9zm-1-10zm0 3zm-4-4zm-3 7zm0 1zm-2-1zm-1-5zm-2 5zm0-3zm0 2zm-1 4zm-9-1zm0-7zm-1 5zm-3 0zm0-5zm0-3zm-3 10zm0-11zm0 4zm-1 2zm0 6zm0-13zm-1 3zm-1 2zm-1 7zm-1-5zm0 6zm-1-7zm-8 3zm-1 12zm6-6zm7 6zm0 6zm1-12zm1 7zm4-8zm0 11zm2-6zm2 5zm2-1zm1-5zm0-2zm2 7zm2-6zm3 2zm2 3zm0-7zm1 9zm2 3zm2-10zm3 6zm2-5zm3 1zm3-1zm1 3zm1-6zm4 6zm2 7zm1-7zm7-3zm1 8zm2-9zm0 2zm2 6zm0-3zm2-5zm2 4zm1 3zm0-6zm4-4zm7 5zm2 9zm2-13zm5 6zm8-3zm12 0zm87-1zm15 0zm3 4zm4-6zm14 5zm11-6zm44 9zm3-2zm1 2zm0 3zm7-7zm4 3zm3 6zm1-9zm4-1zm3 7zm1-6zm6-2zm1 4zm3 2zm5-8zm3 8zm3 2zm0-6zm10-1zm0 3zm4-6zm1 5zm-20 9zm-4 3zm-5 5zm-1-6zm0 10zm-4-6zm-4-2zm-2 0zm-2 8zm-2-5zm-6-3zm0-3zm0 9zm-4-7zm-3 6zm-1 4zm-12-3zm-168-4zm-10-2zm-5-2zm-4 4zm-8 0zm-6-6zm-3 10zm-2-5zm-1-2zm-1 8zm-3 0zm-4-6zm-1 1zm-2 3zm0-8zm-1 3zm0-5zm-2 1zm-1 3zm0 5zm-2 4zm0-8zm-2 7zm0-11zm-3 9zm0 3zm-2-12zm-3 3zm-2 9zm-9-6zm-3 6zm-6-13zm0 12zm-1-7zm-1 1zm-2 7zm-4-6zm-2-5zm-2 9zm-1-6zm-1-4zm0 13zm-2-12zm-2-1zm-3 10zm-1-4zm-4 6zm0-7zm-2 6zm-4-11zm-1 3zm-1 2zm-3 10zm6 6zm1-3zm1 5zm7 0zm0-5zm1 7zm1-5zm2 2zm4-3zm1 7zm0-4zm2 2zm3 2zm1-7zm4 3zm3-3zm2 2zm0-2zm4 1zm0-6zm1 10zm0 2zm2-12zm1 2zm1-2zm3 0zm4 4zm2 9zm1-2zm0-4zm5 3zm1-6zm3 7zm4 1zm1-9zm4 5zm0-6zm3 6zm2-8zm17 12zm10-4zm3-5zm3 5zm136 3zm11 1zm3 1zm5 0zm7-9zm2 8zm3-1zm1-5zm2-6zm0 13zm7-2zm14-5zm5 3zm1 3zm4-11zm2 0zm3 2zm6-2zm4 1zm2 1zm3 3zm0-7zm3 2zm0 6zm4-4zm9-3zm-31 15zm-8 6zm0 3zm-2-10zm-2 5zm-1-5zm-1 4zm0 9zm-1-11zm-4 8zm0-4zm-5 3zm-2-3zm-2 2zm-9-8zm-2 4zm-3 5zm-2 3zm-3-4zm-2-3zm0 6zm-1-3zm-3 4zm-1-7zm-8-2zm0 9zm0-3zm-7-9zm-8 5zm-11 5zm-5-3zm-2 1zm-6-1zm-4 3zm-89-3zm-5 1zm-1-4zm-2 3zm-4 5zm-1-6zm-10 3zm0 3zm-9-2zm-4 0zm-5 0zm-1-4zm-5 6zm-2-7zm-2-5zm-1 4zm-10 1zm-5 3zm-4 5zm-1-6zm-4-5zm-1 4zm-1 6zm-5-12zm-4 12zm-1-2zm0-7zm-4 1zm-5-4zm-5 1zm11 24zm1-11zm4 11zm5-7zm2 8zm2-9zm0 7zm8-6zm2-1zm2 3zm2 4zm2 2zm3-4zm0-5zm1-2zm0-2zm3 2zm1 10zm2-6zm1 5zm3 1zm4 0zm5 0zm4-5zm3 2zm5-1zm3 4zm12-9zm0 9zm1-4zm6-6zm3 6zm6-5zm4 2zm2 7zm1-3zm3 4zm3-2zm1 2zm34-4zm5-3zm9-2zm2 3zm9-4zm7 2zm1 3zm2 2zm0-7zm2 10zm1-2zm0-9zm2 5zm1-2zm1 7zm3-1zm6-10zm5 11zm4-2zm3-8zm3 10zm0-6zm4 7zm3-6zm9 1zm0-2zm0 7zm1-3zm2 4zm2-5zm3-2zm1-3zm3 10zm3-2zm8-9zm1 2zm1 4zm2-8zm1 12zm2-10zm3 0zm2 5zm1-7zm1 2zm2 1zm-11 12zm-3 0zm-1 3zm-1-3zm-2 4zm-2 1zm-1-6zm0 3zm-3 0zm-3 7zm-5 0zm-4 1zm-8-11zm-2 6zm-4-6zm-1 6zm-3-4zm-2 4zm-6 2zm-2-5zm-3 2zm-4 2zm-7 3zm0-4zm0 7zm-1-11zm-1 8zm0-10zm-2 0zm-2 11zm-7-5zm-2-5zm-2 0zm-2 7zm-5-5zm-2 3zm-1-7zm-1 11zm-5 3zm-6-4zm-2 2zm0-6zm-5 6zm-7-7zm0-4zm0 7zm-3 5zm-7 1zm-3-7zm0 6zm-1-4zm-1-2zm-4 1zm-8-5zm-4-1zm-3 11zm-10 1zm-1-6zm-6-3zm-2-2zm-1 6zm-1-4zm-1 3zm-1 2zm0-7zm-3-3zm-4 1zm-2 5zm-4 0zm-2-2zm-3 3zm-1 7zm-3-8zm0 4zm-1 2zm-1-10zm-8 3zm-2-3zm-1 4zm-4 0zm-2-2zm-1 2zm-2-1zm-3 3zm-1 4zm-2-7zm-4 4zm-5-1zm-9-4zm-4 1zm-2-2zm18 15zm5-2zm8 6zm2 3zm3-3zm0 3zm3-10zm0 12zm1-2zm1-4zm3 3zm1-6zm14-2zm3 6zm0 4zm2-4zm7-8zm8 6zm1 6zm2-11zm1 2zm3-1zm5 11zm1-8zm1-3zm0 9zm11-9zm0 10zm1-12zm3 7zm3-4zm4 7zm0 3zm3-1zm3-8zm6 9zm4-7zm1 5zm6-5zm2-6zm6 7zm1 3zm1-6zm1 3zm5 3zm2-6zm2 1zm3-4zm2 3zm7 9zm1-13zm11 6zm5-5zm5 5zm1-4zm3-1zm0 7zm0-3zm25-4zm84 10zm72 0zm1 3zm1-2zm4 1zm2-1zm1-3zm2 3zm-6 5zm-13-2zm-4 13zm-5-4zm-10 0zm-7 1zm-17-2zm-3 0zm-7 1zm-1-8zm-8 4zm-10 1zm-3 4zm-1-8zm-2 7zm-11 3zm-5-1zm-11 0zm-38-4zm-12-1zm-3 0zm-52-3zm-4-3zm-3 6zm-1-7zm0 3zm-5 2zm-2-2zm0 6zm-8-3zm-1-5zm-2 8zm-2-3zm-5-2zm-1 8zm-1-3zm-5-5zm-1-4zm-2 7zm0 7zm-6-4zm-1-2zm-2 2zm0-5zm-3-2zm-3 6zm-7-4zm-3-2zm-5 7zm-3 0zm-1-9zm-5 11zm-5-6zm-2-2zm-11-1zm-3 4zm-1-3zm-1-3zm-1 5zm-3-2zm-6 0zm169 13zm2-1zm2-1zm41 8zm1-7zm2 1zm1 9zm8-10zm1 3zm1 1zm6-1zm0 4zm5-4zm2-4zm1 1zm2 0zm14 8zm4-2zm2 5zm15-6zm2-4zm8 4zm1 5zm5-3zm1 2zm8 1zm12-11zm3 12zm14 13zm-7 0zm-3-11zm0 2zm-9 6zm-4 1zm0 4zm-1-11zm-2 9zm-2-3zm-1 1zm-6 1zm-1-7zm-4 10zm-1-7zm-1 5zm-22-3zm-5 3zm-5-2zm-13-3zm-6 5zm0-8zm0 6zm-2-4zm-2 2zm-1-4zm-2 1zm-1-3zm-3-1zm-184 24zm4 2zm6-11zm8 10zm139-4zm20-2zm3 5zm2-3zm2 3zm5-10zm3 4zm2 3zm0-2zm0 5zm3-7zm3 2zm2-3zm2 7zm3-5zm4 7zm0-10zm4 8zm4-6zm0 7zm2-5zm1 2zm10-7zm0 2zm3 10zm3-10zm6 2zm4-3zm4 11zm4 0zm6-2zm1 3zm2-11zm3-1zm6 6zm1 6zm9-7zm1-3zm7-4zm-8 25zm-4-6zm0-2zm-1 7zm-3-5zm-3 7zm-12-3zm-2-3zm-1 5zm-3 0zm-1 1zm-1-6zm-3-2zm-6 3zm-4-6zm-1 6zm-1-4zm-3 11zm-5-11zm-2 11zm-2-14zm-1 6zm0 5zm-1-11zm0 3zm-9 3zm0 5zm-2-7zm-1 8zm-2-6zm-2 6zm-2 1zm-3-10zm-1 2zm-2-2zm-1-3zm-15 2zm-12-1zm-1 11zm-4 2zm-135-6zm-7 1zm-3 1zm-8-5zm-5 8zm-6-3zm-22 16zm5 1zm13-2zm12 1zm1-2zm3 3zm5-2zm1 3zm19-3zm25-5zm15 8zm12-1zm40 1zm6-8zm4 1zm2 2zm12-9zm6 1zm4 0zm0 2zm9 1zm6 1zm4-2zm2-3zm4 2zm1 5zm0 2zm1-5zm3 9zm1-6zm12 6zm0-8zm5 8zm0-3zm1-8zm5 6zm3 5zm2-3zm2-3zm1-2zm2 5zm0-9zm8 12zm1-5zm1-6zm0 9zm2-6zm0 2zm4-3zm1 4zm0 3zm1-11zm8 12zm1-4zm1 5zm7-13zm0 2zm1 11zm3 0zm1-9zm1 6zm4-5zm3-4zm-14 13zm-11 6zm-5-4zm-4 4zm-1-3zm-3-1zm-3 9zm-4-7zm0-2zm0 5zm-2 6zm-1-10zm-4 10zm0-8zm-5 3zm-3-2zm0 3zm-5 0zm-5-6zm-22 2zm-3 4zm-3 1zm0-5zm-2 9zm-1-6zm-5-7zm-3 0zm0 2zm-3 7zm-11-4zm-1 3zm0 4zm-1-11zm-1 6zm-11-6zm-19 11zm-2 0zm-1-5zm-9-6zm-26 3zm-2-4zm-3 5zm-5-1zm-1 4zm-2 2zm-54-8zm-2 4zm-23 6zm0-9zm-1 8zm-4-9zm-1 6zm-1-5zm-4-4zm0 10zm2 5zm2 2zm27 5zm2 3zm4-4zm1-3zm43 0zm4 10zm1-11zm3-2zm3-1zm1 5zm1-1zm4 3zm3-6zm3 9zm5-5zm1-4zm8 3zm9 0zm6 6zm6-2zm0-7zm1 2zm14 4zm4-5zm8-1zm12 5zm17-3zm1 2zm3-1zm1 2zm4-4zm2 2zm5-2zm0 2zm-19 22zm-20-5zm-6 0zm-1 1zm-6 5zm-5-9zm-2 3zm-2-4zm-4-1zm0 9zm-1-3zm-3 6zm-1-8zm-6-6zm-3 0zm-7 11zm-2-6zm-6 1zm-2-4zm-4 9zm0-2zm-14-2zm-7-1zm-4-1zm0 3zm-1-6zm-1 11zm-2-11zm-12 7zm-12 4zm-12-5zm-4 0zm-10 5zm-10-3zm-2-1zm-4 2zm-4-7zm-2-2zm0 10zm-2 1zm-3 4zm5 5zm9-3zm1-4zm1 11zm3-1zm1-8zm2-2zm2 6zm8-3zm1-4zm1 2zm4-2zm4 12zm15-10zm1 3zm2 8zm6-2zm10-5zm2 3zm1-4zm2 3zm3 5zm0-6zm8 2zm4-1zm1-1zm10-1zm4 1zm76-4zm0 4zm1 3zm0-9zm2 7zm1 4zm4-2zm1 0zm4-8zm0 3zm1 4zm1-7zm2 3zm1 2zm1-2zm-127 22zm-6-8zm-2 0zm-6 3zm-2 4zm-3-1zm-1-9zm-2 4zm-4 5zm-9-5zm-2-2zm-4 9zm-15-4zm-1 3zm0-11zm-16 3zm9 13zm4-2zm14 2zm35 0z" stroke="#BEBEBE" stroke-width="6.7" stroke-linecap="round" fill="none"/><path d="M1141 1817zm123 8zm-20 6zm-33-5zm-38 14zm-100 12zm-4 1zm-31 4zm-5 1zm-12-1zm-3-1zm-8-7zm-2 7zm-15 14zm70-5zm263 1zm-251 17zm-32 2zm-38-7zm-3-1zm-3 6zm-1 4zm-25 2zm28 7zm15-3zm13 2zm6-1zm273 3zm-86 17zm-216-2zm12 10zm167 26zm-109 6zm88 18zm-8 2zm163 17zm53 16zm-17 9zm-23-1zm-4 14zm39-2zm9-3zm-11 9zm-53-2zm-6 8zm66 6zm-45 24zm-148-8zm-59 4zm-46 4z" stroke="#DD9283" stroke-width="6.7" stroke-linecap="round" fill="none"/><path d="M1036 1838zm11 5zm252 11zm-323 12zm26 6zm5-3zm277 2zm-303 17zm32 5zm17 20zm-34-3zm-9-5zm-9 3zm111 45zm179 54zm41 33zm4 8z" stroke="#CDA8A1" stroke-width="6.7" stroke-linecap="round" fill="none"/><path d="M1092 2095zm54 15zm-14-6zm-5 10zm-4-8zm-14 3zm-12 5z" stroke="#FF1A0A" stroke-width="6.7" stroke-linecap="round" fill="none"/><path d="M1095 2118zm38 2zm8 3zm10-6zm6 4z" stroke="#F25B47" stroke-width="6.7" stroke-linecap="round" fill="none"/><path d="M1243 1795zm-46 47zm-14 3zm-140 1zm-5-1zm-39 2zm-6 10zm43 4zm0-6zm161-6zm-185 15zm-22-2zm-12 28zm19-13zm22 6zm7 3zm8 0zm2-1zm-6 8zm-1 8zm-40-5zm-6 1zm3 17zm343 79zm-29 13zm82 3zm-11 13zm-89 16zm11-6zm48 24zm-49-7zm-202 15z" stroke="#CDA8A1" stroke-width="6.7" stroke-linecap="round" fill="none"/><path d="M1095 2105zm24 8zm18-11zm24 15zm-3 7zm-19-7zm-30 1zm-8 8zm-8-10zm28 15zm7 3zm4-5z" stroke="#F93B29" stroke-width="6.7" stroke-linecap="round" fill="none"/><path d="M1130 2095zm3 15zm-26 4zm-7 10zm20-1zm3-7zm0 5zm5 3zm16-9zm-8 14z" stroke="#FF1A0A" stroke-width="6.7" stroke-linecap="round" fill="none"/><path d="M1213 1989z" stroke="#EC7C66" stroke-width="6.7" stroke-linecap="round" fill="none"/><path d="M1173 1805zm8-2zm16-3zm6 3zm3-2zm5 1zm1-3zm4 2zm4 1zm5-7zm3 2zm4 2zm2 0zm3 0zm2 3zm2-1zm5 2zm1-4zm3 6zm1-7zm9-2zm6 5zm2 5zm13-2zm38 13zm-3-3zm-2 4zm-1-3zm-5-2zm-3-2zm-7 1zm-1-4zm-5 3zm-2 2zm-7-1zm-6 0zm-2-3zm-4 8zm-9-3zm-7-1zm0 6zm-1-11zm-7 2zm-2 5zm-9-9zm-1 9zm-4-2zm0 5zm-2-7zm-3-3zm-2 4zm-3 4zm-1-3zm-6 5zm0-8zm-1 6zm-3-4zm-8-4zm-1 11zm-3-8zm-3 4zm-9 1zm-3-6zm-6 0zm0-3zm-2 3zm-2-3zm-2 7zm0-5zm-2-2zm-3 4zm-3 9zm-6-10zm-1 3zm-2-2zm-1 5zm-6-1zm-9 4zm-111 13zm2-3zm111-8zm1 5zm6-4zm6 5zm7-5zm3 9zm0-8zm1 3zm3 0zm3-1zm5 0zm1 7zm16-5zm3-1zm3-6zm1 6zm0 3zm5 2zm5-8zm4 2zm4 4zm5-8zm1 10zm2-4zm4 2zm4-7zm4 5zm2 5zm3 1zm9-5zm1-7zm11 1zm13 3zm1-3zm7-1zm4 10zm5 2zm1-11zm0 6zm3-8zm1 12zm10-11zm1 2zm4 1zm0 3zm0-6zm1 2zm1 8zm3-4zm3 5zm0-10zm6 24zm-4-3zm-3-4zm-1 4zm-5-3zm-1 7zm-9-13zm0 9zm-2 2zm-1-7zm-4 0zm-2 7zm-2 2zm-2-11zm-3-1zm0 2zm-3 3zm-2 4zm-1-7zm-1 9zm-3-3zm0 3zm-3-3zm-4-2zm-39-5zm-1 3zm-5-5zm-6 5zm-1 6zm-2-11zm-1 3zm0 9zm-9-8zm-1 10zm-3-7zm-7 5zm-2-2zm0-4zm-6 8zm-3-6zm-1 5zm-1-8zm-3-1zm-6 0zm-3-1zm-1-2zm-3-1zm-3 6zm-3 7zm-3-1zm-88 1zm-13-3zm-1-4zm-1 2zm-1-6zm-1 3zm0-4zm-4 5zm-1-2zm-1 1zm-1-4zm-1 1zm-4 3zm-1 1zm-3-4zm0 12zm-1-4zm-2-9zm-6 12zm0-3zm-2-1zm-4-6zm-2-3zm0 11zm-5-9zm-3 9zm-6 2zm0-3zm-2-2zm-2 5zm-13 9zm1 5zm1-2zm3 1zm6-11zm3 5zm0 5zm2 2zm0-9zm3 0zm5 6zm1-2zm1-4zm0-3zm4 3zm0 2zm1 5zm1-6zm2-4zm0 3zm0 4zm4-4zm2-2zm2 8zm1-10zm4 2zm1 8zm1-5zm1-1zm3 1zm1 4zm5 2zm1-10zm1 2zm4 0zm3-3zm0 9zm0 4zm3-5zm2 3zm0-6zm1 6zm3-6zm2 7zm4-3zm1 2zm1-2zm79-7zm19-1zm0 12zm2-3zm0-6zm2-3zm4 1zm0 8zm2-9zm1 9zm5 1zm4 1zm0-11zm1 5zm5 3zm2 2zm10-10zm59 0zm1 8zm6-5zm1 4zm0 4zm2-1zm4-6zm3 8zm0-9zm4 4zm0 4zm7-9zm1 10zm6-3zm5-8zm8 7zm2 1zm6-10zm3 2zm1 11zm4 6zm-12 3zm-1-3zm-7 8zm0-8zm-3 2zm-8-5zm-10 11zm0-7zm-3 8zm-6-7zm-6-2zm0-3zm-6 12zm-1-13zm-1 10zm-36-7zm-7-3zm-3 6zm-21 7zm-4-7zm-6 3zm-9 3zm-2-7zm-2-3zm0-3zm-1 7zm0 7zm-2-4zm-1-3zm-3 3zm-88-1zm-5 4zm0-5zm-3 5zm-2-7zm-3 7zm-5-1zm-3-3zm-4-9zm-1 12zm0-10zm0 12zm-3-4zm-1-10zm-3 4zm-3-4zm0 4zm-2 6zm-2-9zm-2 10zm-2 0zm-3 2zm-3-12zm0 11zm-2-8zm-1 2zm-1 2zm-2-4zm-1 4zm-1 5zm-2-9zm0 8zm-1-4zm-2-5zm-1 0zm-1 5zm-1 4zm-2-7zm-1 8zm0-11zm-1 9zm-1-3zm0-2zm-1 5zm-2-4zm-3 5zm-8 0zm-1-2zm-5-6zm-9 5zm-1-8zm0 1zm-2 7zm-4-2zm-2 6zm-3-4zm-4 19zm3-10zm9 0zm0 6zm2-8zm0 7zm2-6zm0-2zm6 11zm0-4zm2-6zm4 1zm0-2zm2 11zm2-12zm0 6zm0 6zm1-8zm1 3zm2 2zm0-8zm1 11zm1-4zm2 5zm10 1zm3-11zm0 7zm2-2zm0-6zm1 8zm3-6zm0-2zm1 7zm1 2zm2 0zm0-6zm1-3zm3 3zm0-4zm1 2zm3 10zm1-11zm3-1zm1 12zm2-8zm1-5zm0 11zm1-9zm4 0zm2 7zm2-8zm1 4zm2-4zm2 2zm9 6zm0-9zm2 5zm0 8zm4-11zm1 11zm13-5zm106-5zm3 2zm11-3zm1 7zm6-2zm5-6zm1 1zm2 1zm43 11zm8-14zm5 11zm1-9zm1 8zm3-3zm4 3zm1 2zm2-6zm3 3zm1-4zm1-3zm1 9zm3-6zm1 7zm6-7zm1 3zm1 3zm2-4zm2-6zm15 8zm2-7zm4-2zm-19 26zm0-10zm-4 1zm-5 7zm-6-3zm-5 4zm-1-9zm0 3zm-3 4zm-3 3zm-2-6zm-4-6zm-1 4zm-2 3zm-3 1zm-6-2zm-5 2zm-1 5zm-3-2zm-3-3zm-2 6zm0-3zm-168 2zm-3-7zm-5 1zm-2-7zm-7 4zm-3-1zm-12-3zm-1 6zm-1-2zm-1-3zm-4 12zm-1-4zm0-4zm-4-4zm-2 2zm-4 10zm-2-6zm-1-3zm-4-1zm-1-1zm-1 6zm-1 2zm-2 3zm0-4zm-6 2zm-3 1zm-2-11zm-1 10zm-4-10zm-1 5zm0 8zm-2-14zm-1 6zm-1-4zm-2 7zm-1-6zm-2-2zm0 7zm-2-4zm-2 0zm-2 3zm0 2zm0-5zm-1 10zm-5-1zm-1-10zm-1-2zm-1 12zm-2-12zm-1 8zm-7 2zm-6-6zm-3 3zm1 13zm1 1zm1-4zm5-1zm4 0zm3 5zm0-5zm6 1zm3 3zm1 4zm4-3zm1-2zm2 2zm3-5zm1 3zm1-6zm0 13zm2-9zm4 9zm2-9zm3 7zm3-8zm1 3zm2 3zm2-8zm7 11zm3 2zm11-3zm3-11zm0 4zm1-2zm6 3zm4 4zm1-7zm23 4zm7 2zm6-5zm2 8zm119 1zm8-2zm2 0zm1-2zm3 2zm1-4zm2 4zm4 0zm1-2zm5-4zm1 7zm1-9zm4 2zm0-4zm5 11zm1-4zm1-4zm2 7zm0-6zm1 2zm5 5zm0-8zm1-3zm5 4zm8 8zm5-8zm3 3zm9 4zm4-1zm3 3zm2-10zm-9 11zm-10 11zm-1-6zm-2-2zm-2 2zm-3 7zm-3-1zm-2 2zm-5-1zm-5-1zm-1-7zm-2 10zm-2-9zm-1-2zm-9 0zm-5-3zm-5 3zm-4 0zm-2 2zm-1 2zm-6 5zm-1-9zm-2 6zm-3-2zm-2-6zm-4 12zm-2-11zm-3 11zm-3-6zm-1-3zm-2 1zm-1 8zm-5-1zm-1-7zm-27 7zm-68-2zm-1-5zm-7 1zm-5 6zm-1-7zm-1 4zm-2 2zm-1-10zm-1 4zm0 7zm-2-4zm-2 4zm-8-3zm-1 2zm-1-2zm-6-3zm-1 2zm-2 2zm-1-2zm-6 4zm-1-6zm-2-3zm-2 10zm-2-5zm-2 3zm-5-8zm-1 10zm-2-10zm-9 1zm-1 8zm-8-10zm-1 2zm-1 3zm-4-1zm-1-3zm-3 9zm0-3zm-3 12zm5 2zm2-5zm2 3zm0-5zm1 8zm2-9zm2 5zm4 1zm2-6zm0 12zm4-3zm0-8zm0 5zm4 3zm4-6zm1 7zm2 1zm3-8zm0 5zm1 5zm1-7zm2 1zm3-3zm1 2zm1-3zm1-2zm2 3zm1 3zm5-2zm6-1zm1-2zm1 3zm2-4zm10-2zm2 6zm1-4zm0 11zm1-3zm6-4zm0 3zm0 4zm3-3zm3-9zm3 3zm5 7zm4-4zm4 4zm40-4zm1 6zm4 0zm2-5zm0-4zm5 7zm1-11zm4 4zm0 3zm1-6zm2 5zm2 4zm2-4zm4-3zm7 2zm7 0zm2 9zm1-9zm3 3zm2-2zm2-4zm4 5zm10-6zm9 7zm3-6zm4 1zm3 10zm3-3zm3-10zm15 3zm2 3zm1 4zm22-9zm-34 21zm-9-4zm-3-3zm-3 1zm-1 6zm0 6zm-1-3zm-2 1zm-4 0zm-4-4zm-1 3zm0 2zm-3-5zm-1 2zm-1 4zm-1-3zm-4-2zm-3 2zm-4-2zm-1 4zm-5-9zm0 4zm-2 3zm-6 2zm-6-7zm-1 7zm-3-8zm-2 8zm-4-2zm-4-3zm0-8zm-2 11zm-4 3zm-3-10zm-5 8zm-4-10zm-1 7zm-1-8zm-1 3zm-5 0zm-3-1zm-4 7zm-3-1zm-1-3zm-3-2zm0 4zm-3-3zm-3 4zm0 3zm-1-6zm-6 2zm0 1zm-4-2zm-4 0zm-5-5zm-1 3zm-1 8zm-3-2zm-4 0zm-3-9zm-1 7zm-7 5zm-3-1zm-2-10zm-3 11zm-1-4zm-5 2zm-2-3zm-2-9zm-1 10zm-3 2zm-1-8zm-4 8zm0-11zm-3 7zm-2-8zm-4 12zm-4 1zm0-3zm-7-9zm-3 1zm-1 6zm-3 4zm-5-10zm-2 2zm-1 7zm-1-3zm-1-2zm-4 1zm9 9zm4 0zm4 3zm2 5zm1-2zm14-3zm1 8zm1-11zm14 12zm0-10zm3 0zm6 6zm1-5zm0-3zm2 11zm1-3zm2-7zm0 5zm3-6zm0 7zm0 3zm1-5zm1-6zm1 9zm2-7zm1 6zm1-2zm3 2zm2 5zm1-3zm9-6zm5 6zm3-6zm3-1zm4 8zm1-3zm3-7zm3 6zm4-6zm1 4zm1 8zm2-11zm2 4zm5-2zm7 3zm2 4zm1-4zm8-5zm1 4zm6-5zm0 10zm6-12zm0 6zm1-4zm5 3zm10 4zm11 1zm4 0zm6-5zm4-3zm3 2zm0-3zm94 8zm4 3zm2-2zm42 2zm24 0zm9-1zm2 3zm4-5zm-12 8zm-2 2zm-1-3zm-2 3zm0-4zm-5 5zm-1-3zm-2 8zm0-10zm-1 4zm-1-2zm-1 3zm0 7zm-11-8zm-13 7zm-2-6zm0 7zm0-3zm-10 4zm-5-8zm-16 1zm-37 4zm-17 2zm-27 0zm0-7zm0 2zm-2 4zm-58-12zm-4 1zm-11 3zm-2 3zm-5-1zm-6 2zm-8 0zm-6-6zm-1 11zm-2-5zm-1 5zm-4-3zm-2-5zm-1 7zm-4-10zm-9 4zm-9 4zm-1-7zm-3 2zm-4 6zm-4-10zm-2 8zm-8-3zm-1 3zm-2-4zm-2 3zm-3-1zm-9-5zm-2 3zm-1-2zm-2-2zm-3 2zm67 11zm99 3zm9-1zm3 0zm3 0zm2-1zm34 5zm1 8zm3-14zm4 7zm0-3zm1 9zm0-2zm3 2zm2-5zm2-1zm4 5zm5-1zm1-8zm6 4zm2-1zm3 5zm0-7zm1-3zm1 6zm2 5zm0-9zm2 2zm1 3zm5 3zm6 2zm0-2zm4-4zm0 6zm8-2zm0 3zm0-8zm2 6zm3 1zm4-4zm2 5zm4-11zm8 4zm3 1zm0 3zm3-7zm4 8zm3-8zm19 21zm-3-4zm0 2zm-8-6zm-1 7zm-2-2zm-7-8zm-4 4zm-2 3zm-8 2zm0-2zm-1-1zm-4-5zm-3 6zm-5 1zm-2 5zm-1-3zm-1-3zm-1-7zm-1 2zm-8-1zm0 9zm-1-6zm-1 6zm-4 3zm0-10zm-2-2zm0 2zm-3 6zm-1 2zm-1 3zm-1-5zm0 3zm-5 1zm-2-9zm-12 4zm-5-6zm-4 9zm0-3zm-3-1zm-10-2zm-2-2zm-43 4zm-121 12zm7 5zm123 2zm32 0zm0-3zm1-3zm2 2zm2 3zm2-3zm2-7zm4 12zm6-6zm3-3zm5 7zm0-10zm3 10zm3-6zm4 2zm1-6zm0 5zm1-2zm3 10zm0-10zm3 8zm0-6zm1-2zm2-3zm2 1zm2 8zm0-5zm1 8zm4 1zm6 0zm0-4zm1-8zm6 5zm2 6zm2-12zm5 1zm4 8zm3 1zm1 3zm0-5zm3-1zm1-1zm7-1zm1 2zm1-4zm3-2zm1-2zm2 8zm1 3zm3-6zm6 2zm-9 15zm-1 0zm-7 3zm-1-11zm-3 1zm0 8zm-6 3zm-1-10zm-7 12zm-1-3zm-1-10zm-2 3zm-3 9zm-2-2zm-6-5zm-3 5zm-4-6zm-2 2zm-2-5zm-1 7zm-4-5zm-9 3zm-10-7zm-8 13zm-1-3zm-3-1zm-1 3zm-1-10zm-1 8zm-5-4zm-1 5zm-1-5zm-1 2zm-6-5zm-9 9zm-4-1zm-2-6zm-109 9zm-28-1zm-15-13zm-2 14zm-19 10zm3 2zm4 1zm14-9zm1 4zm7-2zm3 3zm0-5zm7 9zm84 0zm12-1zm2-5zm3-1zm17 4zm2 1zm2 2zm2-8zm4-3zm4 4zm13 5zm0-10zm2 3zm13 1zm5 0zm1 6zm3 2zm1-2zm3-2zm0-5zm3-2zm2 5zm1-6zm1 3zm8-1zm1 2zm3 7zm8-4zm1-4zm2 5zm1-6zm5-1zm2 11zm1-8zm0-3zm5 12zm2-12zm2 8zm1 3zm2-7zm2 3zm8 1zm2-5zm0 6zm3-7zm2 5zm2-2zm1-5zm5 5zm0-3zm1 5zm2-2zm-8 9zm-2 1zm-4 1zm-3 1zm-4-1zm-4 1zm-1-3zm-10 4zm-1 2zm-4-1zm-2 2zm-1 2zm-3-3zm0-2zm-3 3zm-1-8zm-1 7zm-1-7zm-1 3zm-6-1zm0 8zm-1-4zm-3-2zm-21 1zm-2 5zm-2-3zm-1 3zm-9-1zm-2 2zm-4-2zm-4 3zm-2-2zm-15-7zm-1 6zm-2 2zm-9-11zm-9 6zm-2-6zm-1 13zm-2-2zm-10-8zm-1 10zm-2-3zm-9-11zm-31 1zm-5 10zm-45 1zm0-10zm-6-1zm0 3zm0 7zm-3 2zm0-2zm-4-2zm-16 1zm-2-4zm-4-5zm-2-1zm-1 9zm3 7zm28 2zm49-2zm2 3zm2-4zm2 11zm1-5zm6-7zm4 4zm10 8zm4 1zm6-12zm1 6zm6 5zm1 2zm10-3zm5-9zm1 3zm2 7zm3-3zm2 2zm1-2zm2 0zm26-6zm6 3zm3 3zm1-3zm4 1zm8-6zm11 10zm1-10zm-10 16zm-4 11zm-32-3zm-2-7zm-4 6zm-5-2zm-1 6zm-3-4zm-3-1zm-4-5zm-7 7zm-9-2zm-5-1zm-1-8zm-3 11zm-3-11zm-15 12zm-1-7zm-2 8zm-2-12zm-1 9zm-2-3zm-5 7zm-7-10zm0 4zm-6 4zm-2-4zm-6-6zm-2 3zm-11 1zm-8 7zm-20-1zm-2-4zm-1 5zm-11 0zm-2-2zm-1-5zm-5 5zm3 6zm1 2zm2 5zm2 3zm2-12zm9 1zm3 10zm3-1zm3-10zm4 9zm4-10zm2 3zm1 9zm1-11zm2 3zm0 4zm7-6zm2 2zm31 1zm1 6zm9-4zm2-1zm0-3zm6 7zm4-3zm4-4zm2-2zm10 0zm30 1zm2-1zm3 2zm28 0zm1 7zm1-8zm2 3zm3 5zm0-7zm1 2zm4 1zm1-6zm1 7zm0 4zm1-11zm1 9zm2-2zm-128 17zm-1-6zm-17-3zm-4 8zm-3 4zm-13-9zm-3 8zm-3-9zm-2 7zm-2-8zm-5 11zm-8-12zm-3 9zm16 7zm4-1zm5 2zm0-3zm10-1zm2 1zm3 4zm10-2zm7-3z" stroke="#BEBEBE" stroke-width="6.7" stroke-linecap="round" fill="none"/><path d="M1017 1848zm15-2zm32 13zm-36-11zm-42 24zm14-5zm15 1zm10 2zm17-6zm3 25zm-15-4zm-1 3zm-6-6zm-19 0zm-22 8zm0 15zm22 10zm26-5zm20 7zm157 19zm-58 8zm50 4zm-70 25zm183 21zm55 13zm-43 3zm-48 32zm24-5zm16-1zm9 3zm13 2zm13-8zm28 5zm1-3zm-12 11zm-63 1zm-84 6zm-141 4zm5 6zm5 7zm227-1zm15-10zm8-1zm28 1zm-286 13z" stroke="#DD9283" stroke-width="6.7" stroke-linecap="round" fill="none"/></g><path d="M472.4 887.2V1079.2H718.6" fill="none" stroke="#000" stroke-width="1.8"/><text x="527.8" y="1099" font-size="15.6" text-anchor="middle" fill="#000">−4</text><text x="587.4" y="1099" font-size="15.6" text-anchor="middle" fill="#000">0</text><text x="647" y="1099" font-size="15.6" text-anchor="middle" fill="#000">4</text><text x="706.6" y="1099" font-size="15.6" text-anchor="middle" fill="#000">8</text><text x="463.4" y="931.4" font-size="15.6" text-anchor="end" fill="#000">5</text><text x="463.4" y="979.7" font-size="15.6" text-anchor="end" fill="#000">0</text><text x="463.4" y="1028" font-size="15.6" text-anchor="end" fill="#000">−5</text><text x="463.4" y="1076.4" font-size="15.6" text-anchor="end" fill="#000">−10</text><path d="M527.8 1079.2v4.4M587.4 1079.2v4.4M647 1079.2v4.4M706.6 1079.2v4.4M472.4 925.2h-4.6M472.4 973.6h-4.6M472.4 1022h-4.6M472.4 1070.3h-4.6" stroke="#000" stroke-width="1.8" fill="none"/><text x="594.3" y="1121.6" font-size="18.8" text-anchor="middle" fill="#000">UMAP_1</text><text x="430.6" y="982.7" font-size="18.9" text-anchor="middle" fill="#000" transform="rotate(-90 430.6 982.7)">UMAP_2</text><text x="597.2" y="880.6" font-size="22" text-anchor="middle" fill="#000">Sst</text><linearGradient id="cg5" x1="0" y1="0" x2="0" y2="1"><stop offset="0" stop-color="#FF1A0A"/><stop offset=".5" stop-color="#EC7C66"/><stop offset=".92" stop-color="#BEBEBE"/><stop offset="1" stop-color="#BEBEBE"/></linearGradient><rect x="736.9" y="935.8" width="20.8" height="105" fill="url(#cg5)"/><text x="766.5" y="969.1" font-size="16.3" text-anchor="start" fill="#000">6</text><text x="766.5" y="998.7" font-size="16.3" text-anchor="start" fill="#000">4</text><text x="766.5" y="1028.3" font-size="16.3" text-anchor="start" fill="#000">2</text><path d="M736.9 963.3h4.2M757.7 963.3h-4.2M736.9 992.9h4.2M757.7 992.9h-4.2M736.9 1022.5h4.2M757.7 1022.5h-4.2" stroke="#fff" stroke-width=".7" fill="none"/><g transform="scale(.5)"><path d="M1987 1805zm17-9zm31-1zm49 24zm-10-9zm-2-2zm-1 5zm-26 4zm-4 1zm-37 0zm-40-10zm-6 5zm-8 2zm-14-1zm-100 16zm84-9zm15-1zm0 6zm4-4zm13 7zm12 2zm3-6zm4 8zm14-11zm20 5zm23 1zm1 3zm69-2zm3 8zm-6-1zm-12 4zm-4-1zm-5 9zm-3-9zm-8-3zm-38-1zm-13 4zm-6-2zm-46 0zm-116 2zm0-2zm-26 10zm-9-1zm-28 4zm6 6zm3-1zm13 1zm24 3zm238-9zm26 8zm11-6zm6 6zm7 0zm7 11zm-1 2zm-11-5zm-27 9zm-15-4zm-7 0zm-96-7zm-100 3zm-25 2zm0-6zm-7 11zm-11-3zm-6-9zm-14 5zm-8 6zm-27 2zm-9 14zm14-5zm11-6zm10-1zm4 2zm12 4zm1-6zm19 10zm2-8zm3 7zm15-9zm25 3zm182 5zm19-5zm16 14zm-20 4zm-193-1zm-28 0zm-11-1zm-5 6zm-21-7zm-32-3zm-2 9zm-1-6zm-3-3zm-6 5zm-5 5zm14 8zm19 1zm14 7zm1-2zm13 1zm8-4zm19 4zm10-4zm6 0zm218-5zm6-2zm-26 20zm-6 6zm-1-11zm-22-2zm-1 4zm-8 4zm-2-3zm-1 6zm-20-11zm-36 10zm-100 2zm-31-6zm-25 2zm-3 5zm12 9zm0-5zm1-2zm1-2zm2 2zm1 10zm15 0zm44-9zm3 2zm69-2zm13 8zm4-6zm24 7zm19 2zm6-10zm14-1zm2 6zm5-6zm-4 13zm-7 5zm-15 5zm-9-11zm-7 6zm-13-3zm-6 4zm-8-1zm-4-6zm-13 1zm-9-2zm-7 14zm-13-2zm-7-7zm-3 8zm-23-10zm-17 11zm-10-5zm-11-8zm-14 5zm-1 4zm-27-5zm-23 0zm16 13zm6-2zm15 11zm1-2zm24-3zm29-6zm0 9zm12-11zm10 13zm3-1zm36-2zm17-10zm155 23zm-10 1zm-157-6zm-7 3zm-1-7zm0 3zm-3-3zm-2 5zm-11-4zm-4 5zm-6 6zm-1-3zm-14 1zm-3 0zm-6-1zm-9-6zm-10-2zm-5 11zm-5-6zm199 10zm68 7zm-36 15zm-43-5zm11 17zm22 2zm28-9zm30 10zm18 8zm-56-2zm-9 8zm13 10zm15 0zm3-3zm23 9zm2-3zm4-9zm-32 16zm-3-1zm-10 1zm-17 6zm-34 5z" stroke="#CDA8A1" stroke-width="6.7" stroke-linecap="round" fill="none"/><path d="M2014 1834zm-141 254zm27 16zm0-4zm-22 22z" stroke="#F25B47" stroke-width="6.7" stroke-linecap="round" fill="none"/><path d="M1805 1875zm126 91zm73 15zm52 5zm11 0zm12 4zm37 25zm29-10zm2 7zm26 4zm-8 7zm-10 1zm-26-6zm-12 11zm-4-10zm-37 3zm-18 0zm-159 6zm188 15zm3-4zm1-3zm15 5zm29 1zm1-1zm6-2zm15-4zm-62 22zm-29-10zm48 18zm11-1zm-212 33zm-39-7zm7 15zm1 2zm0-6zm7 0zm2 6zm2 6zm14-7zm2 6zm18 1zm146-8zm-133 14zm-7 7zm0-4zm-3 4zm-17 1zm-4-9zm0 8zm-20-11zm-15 3zm11 14zm1-3zm4 0zm14 6zm4 0zm31-7z" stroke="#EC7C66" stroke-width="6.7" stroke-linecap="round" fill="none"/><path d="M1788 1875zm266 125zm-168 111z" stroke="#F93B29" stroke-width="6.7" stroke-linecap="round" fill="none"/><path d="M1833 1872zm-3 24zm285 99zm-248 62zm-5-1zm-3 13zm4-11zm3 8zm0-4zm1 5zm1-6zm4 9zm1-8zm0 9zm-7 4zm-1-2zm17 22zm11 14zm-11 5zm11 14zm9 3z" stroke="#FF1A0A" stroke-width="6.7" stroke-linecap="round" fill="none"/><path d="M2024 1794zm28 18zm-49-3zm-13 7zm-192 17zm8-1zm10-3zm5 2zm153 0zm21-5zm7-5zm2 9zm68-1zm8 2zm-134 7zm-99 8zm-3-5zm-4-5zm-1 11zm-2-2zm0-8zm0 4zm-3-2zm-3 4zm0-2zm-3 3zm-4 2zm-3-8zm-2-1zm0 5zm0-2zm-7-3zm-1 9zm-1-8zm-6 0zm-3 5zm-2 2zm-2-3zm-2-6zm-25 23zm2 1zm7-1zm1-8zm4 2zm1-2zm1 2zm1-3zm2 4zm0-5zm2 11zm2-4zm0 2zm1-9zm1 5zm1-2zm0-2zm1 4zm0 7zm6-3zm2-1zm1 4zm1-3zm2-9zm5 7zm2-6zm1 6zm1 2zm1 3zm1-5zm2 1zm7 4zm0-3zm2-5zm1-3zm3 10zm2-7zm2 7zm3-6zm3-5zm3 2zm1 5zm2-7zm2 8zm0-4zm2-1zm1 3zm1-3zm92 0zm167 11zm-20 0zm-4 7zm-21 3zm-7-5zm-207-1zm-3 5zm-4-6zm-3-1zm-2 8zm-2-5zm-7-5zm0 10zm-5-4zm-1-2zm-1 9zm0-7zm-7-1zm-1 2zm-2 1zm-5-6zm-2 9zm-2-1zm-1-5zm-2 7zm-2-6zm0 4zm-1-6zm-2 9zm0-10zm-1 3zm-3-4zm-4 7zm-2 0zm0-3zm-1-2zm-1 5zm-1-1zm-3 1zm-6 2zm-1-7zm-1 5zm0-2zm-2 2zm-1-5zm0-3zm-2 10zm0-11zm-1 4zm-1 2zm0 6zm0-13zm-1 3zm-1 2zm-1 7zm0-5zm-2-1zm-6-2zm-1 5zm-2 12zm6-6zm2 11zm5-5zm0 6zm1-12zm6-1zm0 11zm1-6zm2 5zm2 1zm1-2zm0-2zm0-3zm2 5zm1-8zm1 2zm3-1zm0 3zm2 3zm1 2zm2 3zm5-4zm2-5zm3 1zm3-1zm6 3zm2 7zm1-7zm8-3zm0 8zm2-9zm0 6zm0-4zm3 3zm3-1zm1-3zm4-4zm16 7zm202 5zm29-9zm29-2zm-19 14zm-17 4zm-13 6zm-224 0zm-3-7zm-1 8zm-8-5zm-1 3zm-1-8zm-1 3zm-2-4zm0 3zm-1 5zm-1 4zm0-8zm-2 7zm0-11zm-1 3zm-3 6zm0 3zm-2-12zm-3 3zm-2 9zm-8-10zm-1 4zm-2-4zm0 10zm-7-1zm-1-7zm0 1zm-3 7zm-2-7zm-2 1zm-6-6zm0 13zm-3-13zm-4 10zm-4 2zm-1-7zm-6-5zm-1 3zm-1 2zm-2 10zm5 6zm1-3zm1 5zm1-6zm6 6zm0-5zm1 7zm1-5zm0-6zm7 12zm0-4zm2 2zm0-5zm3 7zm2-7zm3 3zm2-1zm1-2zm2 2zm0-2zm4-5zm1 10zm2-10zm1 2zm1-2zm3 0zm4 4zm3 3zm3 1zm2 2zm9-7zm4-1zm5-2zm171 9zm53-3zm7 6zm3-11zm27 2zm-35 15zm-11 5zm-241-2zm-5-5zm-1 4zm-1-3zm-5-3zm-5 3zm-3 1zm-6-4zm-4 1zm24 23zm46-2zm5-1zm38 1zm123-1zm5 1zm30-1zm-16 10zm-47 2zm-120 2zm-19-1zm-20-1zm1 19zm34-11zm44 10zm16-4zm248 8zm-13 14zm-51-12zm-22 1zm-13 10zm-164 1zm-33-4zm-24-7zm-9 1zm-6 0zm169 13zm2-1zm2-1zm41 8zm1-7zm3 1zm9 2zm1 1zm6-1zm5 0zm2-4zm3 1zm18 6zm2 5zm18-10zm7 4zm7 4zm23 2zm15 13zm-10-11zm-1 2zm-3 2zm-10 9zm-3-2zm-1-3zm-2 1zm-6 1zm-1-7zm-4 10zm-1-7zm-1 5zm-44-5zm-6 5zm-1-8zm-2 2zm-2-2zm-3 1zm-4-4zm-4 24zm4 0zm5-10zm5 7zm3-4zm3 2zm2-3zm9 9zm1-10zm4 8zm3-6zm0 7zm2-5zm1 2zm9 5zm13-8zm9 8zm3 0zm7 1zm2-11zm3-1zm8 12zm9-10zm-5 20zm-7 2zm-5-9zm-8 3zm-20-5zm-1 6zm-1-4zm-3 11zm-7 0zm-2-14zm-2 0zm-8 6zm-3-2zm-1 6zm0 2zm-3 0zm-6-9zm-1 2zm-2-2zm-1-3zm-15 2zm-12-1zm-150 9zm165 4zm4 2zm1 5zm0 2zm4 4zm1-6zm13 6zm5-3zm0-8zm1 2zm4 4zm3 5zm2-3zm3-5zm2 5zm1-9zm7 12zm1-5zm1-6zm0 9zm2-6zm5 3zm1 3zm1-11zm7 12zm1-4zm1 5zm7-13zm0 2zm1 11zm4-9zm5 1zm3-4zm-14 13zm-11 6zm-5-4zm-11 9zm-4-7zm0-2zm-2 11zm-1-2zm-3 2zm-6-5zm-2-2zm-1 3zm-10-6zm-88 10zm-46-4zm-85 32zm6-4zm18 4zm14-5zm12 5zm53-4zm82 3zm16 7zm-2-3zm-2 0zm-4 8zm-1 0zm-4 2zm-1-4zm-2-7zm-1 6zm0-4zm-121 8zm-21 3zm-11-12zm-13 1zm-4 9zm-17-9zm38 24zm6-7zm2-1zm1-4zm10 3zm2-2zm7 3zm16 2zm0 2zm-49 8zm-18 0zm-3-1z" stroke="#DD9283" stroke-width="6.7" stroke-linecap="round" fill="none"/><path d="M1963 1806zm2-1zm6-3zm1 2zm3-3zm5 5zm3-2zm15-8zm3 3zm8 0zm11-5zm0 8zm3-6zm14 8zm25-1zm9 1zm21 15zm-7-9zm-3 5zm-5-6zm-1 11zm-6-9zm-2 6zm-2-8zm-1-3zm0 6zm-1 7zm-3-11zm-9 1zm-9 4zm-8-4zm-3 4zm-4-7zm-14 1zm-1 9zm-6-9zm-13 3zm-1-2zm-2 4zm0 6zm-3-8zm-3 1zm-2-3zm-1 8zm-14 1zm-2 2zm-5-3zm0-4zm-6-1zm-7-2zm0 3zm-11-3zm-9 11zm-2-5zm-1 2zm-3-1zm-113 16zm25 1zm84-11zm4 2zm7-3zm2-1zm7 11zm22-1zm4-2zm3 2zm3-5zm3 1zm1-5zm0 3zm3 9zm6-1zm2-5zm0 3zm3-1zm1-6zm1 9zm5-1zm2-2zm4-5zm0 7zm13 0zm1-4zm2 3zm2-5zm0 8zm11-7zm3 6zm4-8zm6-3zm6 4zm6 0zm1 6zm2-8zm5 5zm5 5zm7-5zm2 2zm7-1zm4-8zm13 9zm0-9zm4 5zm12 22zm-9-7zm-1 5zm-4-11zm-10-1zm-1 13zm-2-7zm-1 6zm-3-4zm-4 2zm-1-9zm-4 8zm-2-5zm-3 6zm-1 2zm-1-4zm-5-8zm-7 11zm-3 0zm-43-2zm-3 0zm-1-4zm-1 2zm-2 1zm-2 5zm-6 1zm-2-4zm0-10zm-11 8zm-2-2zm-3-5zm-3 11zm-3-3zm-2 2zm-9 3zm0-8zm-1 6zm-3 1zm-1-7zm-3 6zm-5-9zm-2 5zm-3-6zm-1 4zm0 3zm-10-9zm0 5zm-83 7zm-8 1zm-1-9zm-50 3zm4 15zm39 6zm9-4zm3-1zm4 1zm9-4zm83-3zm7-1zm6 3zm3 3zm2-2zm3 2zm2 5zm2-7zm1 8zm1-6zm1-3zm1 3zm2-7zm3 8zm5-5zm7 5zm2-5zm28 7zm11-8zm26 3zm0-3zm3 6zm1-2zm6-1zm2-6zm0 9zm10-1zm6-2zm2 3zm2 4zm6-5zm1 4zm2-7zm2 8zm0-5zm2-8zm6 2zm5 10zm2-6zm0 5zm3-8zm1 10zm5 12zm-4-3zm-4-1zm-1-5zm-2 4zm-10 2zm-2 3zm-2-3zm-4-3zm-5 7zm-9-3zm-2-7zm-2 7zm-1-5zm-2 3zm-3 5zm-1-7zm-2 7zm-8-4zm-41-2zm-2-2zm-1 4zm-1-5zm-16 7zm-9 2zm-19-7zm-9-1zm-1-3zm-2 3zm-6 1zm-98 8zm-2-12zm-2 5zm-6 2zm-3-4zm-10 8zm-13-3zm0-2zm-28 0zm57 12zm1 9zm12-7zm3-3zm100-1zm14 0zm3 4zm4-6zm14 5zm11-6zm44 9zm3-2zm8-2zm4 3zm4 6zm1-9zm6 6zm1-6zm7 2zm3 2zm5-8zm3 8zm3 2zm0-6zm10-1zm1 3zm5-1zm-24 15zm-6 2zm-1-6zm0 10zm-4-6zm-6-2zm-2 8zm-8-8zm0-3zm-4 2zm-3 6zm-1 4zm-12-3zm-177-6zm-6-2zm-3 4zm-15-6zm-18-1zm-35 0zm-18 23zm25 4zm20-8zm3 7zm9-3zm36-5zm138 8zm11 1zm3 1zm5 0zm7-9zm2 8zm3-1zm1-5zm2-6zm0 13zm7-2zm20-2zm7-8zm2 2zm7-2zm3 1zm5 4zm0-7zm3 8zm13-7zm-31 15zm-8 9zm-2-10zm-1 5zm-2-5zm-5 10zm-1-4zm-7 0zm-2 2zm-14 1zm-2 3zm-6-4zm-3 4zm0-7zm-9-2zm0 9zm0-3zm-15-4zm-10 5zm-6-3zm-2 1zm-6-1zm-93 0zm-4 1zm-2-4zm-2 3zm-5-1zm-10 3zm0 3zm-9-2zm-3 0zm-6 0zm-6 2zm-2-7zm-2-5zm-1 4zm-10 1zm-16 7zm-9 0zm-1-2zm-2 15zm1-11zm3 11zm5-7zm2 8zm2-9zm8 1zm3-1zm1 3zm2 4zm3 2zm10-7zm0 5zm3 1zm4 0zm9-5zm11 5zm12-9zm1 9zm0-4zm6-6zm3 6zm12 4zm4 1zm3-2zm1 2zm34-4zm5-3zm9-2zm2 3zm16-2zm1 3zm2 2zm0-7zm2 10zm2-11zm1 5zm2 5zm3-1zm6-10zm5 11zm4-2zm3-8zm3 4zm5 7zm2-6zm9-1zm0 7zm2-3zm6-3zm4 7zm3-2zm9-7zm3-4zm2 12zm4-10zm3-2zm1 2zm2 1zm-11 12zm-3 3zm-2-3zm-1 4zm-3-5zm-4 3zm-2 7zm-5 0zm-15-4zm-4-6zm-4 2zm-2 4zm-6 2zm-15 2zm-1 3zm0-11zm-1 8zm-1-10zm-4 11zm-1-10zm-6 5zm-2-5zm-4 7zm-5-5zm-2 3zm-2 4zm-11-1zm-2 2zm0-6zm-12-5zm0 7zm-9 6zm-3-7zm-1 6zm-1-4zm-1-2zm-4 1zm-11-6zm-4 11zm-11-5zm-5-1zm-1-2zm-2-2zm-2 2zm-2 5zm0-7zm-3-3zm-2 8zm-3-2zm-4 0zm-3-2zm-3 10zm-5-2zm0-10zm-9 3zm-1-3zm-2 4zm-5-2zm-1 2zm-3-1zm-3 3zm-1 4zm-6-3zm-5-1zm-9-4zm-5-1zm30 19zm2 3zm3-3zm3-7zm2 6zm3 3zm1-6zm15-2zm2 6zm0 4zm17-6zm2 6zm1-11zm1 2zm3-1zm6 11zm0-8zm12-3zm1 10zm3-5zm3-4zm10 1zm7 9zm4-2zm8-11zm6 7zm1 3zm1-6zm1 3zm7 5zm0-8zm3 1zm3-4zm2 3zm6 9zm13-7zm5-5zm4 5zm1-4zm3-1zm0 7zm0-3zm26-4zm83 10zm72 0zm2 1zm4 1zm2-1zm1-3zm2 3zm-6 5zm-13-2zm-9 9zm-10 0zm-6 1zm-21-2zm-16-3zm-10 1zm-2 4zm-4-1zm-65-2zm-12-1zm-59-6zm-10 2zm-1 6zm-8-3zm-3 3zm-7-5zm-7 0zm-1-4zm-2 7zm-7 1zm-2-3zm-3-2zm-9 2zm-9 5zm-16-6zm-13 3zm-2-3zm-1-3zm-1 5zm225 17zm24 1zm9-7zm24 9zm14 0zm11-11zm10 25zm-12-3zm-10 5zm-35-5zm-5 3zm-24-2zm-4-2zm-3-6zm-188 23zm4 2zm6-11zm147 6zm36-3zm2 6zm12-6zm31-2zm32 8zm9-3zm5 17zm-4-8zm-22 8zm-5-5zm-3-2zm-6 3zm-14-4zm-4 3zm-10-5zm-44 11zm-4 2zm-136-6zm-7 1zm-11-4zm-5 8zm-6-3zm-4 15zm12 1zm1-2zm3 3zm5-2zm1 3zm19-3zm25-5zm15 8zm12-1zm40 1zm7-8zm3 1zm3 2zm11-9zm6 1zm4 0zm0 2zm9 1zm7 1zm11-1zm17 1zm16 14zm-40 0zm-3 4zm-3 1zm0-5zm-3 3zm-5-7zm-3 0zm0 2zm-2 7zm-11-4zm-1 3zm-1 4zm0-11zm-1 6zm-12-6zm-19 11zm-2-5zm-10-6zm-25 3zm-2-2zm-1-2zm-3 5zm-3 2zm-2-3zm-3 6zm-48-4zm-5-4zm-3 4zm-34 3zm31 12zm2 3zm4-4zm1-3zm43 0zm4 10zm2-11zm2-2zm4-1zm0 5zm1-1zm4 3zm3-6zm3 9zm5-5zm2-4zm7 3zm9 0zm6 6zm7-2zm0-7zm0 2zm15 4zm3-5zm8-1zm12 5zm17-3zm1 2zm3-1zm1 2zm4-4zm2 2zm5-2zm0 2zm-39 17zm-5 0zm-2 1zm-6 5zm-4-9zm-3 3zm-2-4zm-4-1zm0 9zm-1-3zm-3 6zm-1-8zm-5-6zm-4 0zm-7 11zm-1-6zm-6 1zm-3-4zm-3 9zm-15-4zm-7-1zm-4-1zm0 3zm0-6zm-2 11zm-2-11zm-12 7zm-28-1zm-20 2zm-5 1zm-7 1zm0 10zm23 3zm6 2zm4-13zm11 4zm1 9zm7-11zm1 12zm1-9zm4 5zm13-4zm2 3zm1-4zm2 3zm3 5zm1-6zm7 2zm5-1zm1-1zm9-1zm5 1zm76 3zm12-5zm1 4zm4-2zm-122 13zm-3-1zm-1 8zm-3-9zm-5 1zm-11-1zm0 7zm-3-5zm-1 2zm-1 4zm-2-1zm-2-10zm-20 7zm-7 1zm-1 3zm0-5zm-2 2zm-3-6zm-9 2zm59 12z" stroke="#BEBEBE" stroke-width="6.7" stroke-linecap="round" fill="none"/><path d="M1825 1839zm166 9zm-137 28zm11 14zm-70 27zm323 77zm-215 119zm-11-2zm20 23z" stroke="#F25B47" stroke-width="6.7" stroke-linecap="round" fill="none"/><path d="M1958 1805zm32-4zm14 1zm70 11zm-7-1zm-21 2zm-33-3zm-15 7zm-13 1zm-23-9zm-5-3zm-17 6zm-3 3zm0 11zm22-2zm64 7zm76-1zm6-9zm-18 23zm-21 1zm-4 0zm-61-12zm-46 3zm-125-2zm-3 11zm-3-6zm-28 5zm-6 2zm7 11zm10-9zm6 1zm7 5zm1 3zm13-7zm10 5zm93-6zm134 2zm16 12zm-11 11zm-3 1zm-19-13zm-190 12zm-3 0zm-10-1zm-16-8zm-20 2zm-1 2zm-8-5zm-3 9zm-7-1zm-13 1zm-16-11zm-8 12zm34 14zm12-10zm2 5zm6 3zm6-10zm5 1zm6 11zm1-13zm237 10zm18-5zm11 2zm-11 14zm-11 5zm-7-12zm-1 4zm-19 7zm-214-6zm-12-1zm-30 2zm-7-2zm-4 3zm-12-6zm20 19zm2-2zm28 10zm15-1zm5-8zm6-3zm23 4zm148 0zm34-6zm34 10zm-14 15zm-3-8zm-2 2zm-3 7zm-5 1zm-42-6zm-11 0zm-8-5zm-10 3zm-7 0zm-95 0zm-7 1zm-6 6zm-6-7zm-14 4zm-9-1zm-34 4zm-8-10zm-4 19zm3-6zm8 0zm12 3zm2 7zm1 1zm3-3zm1 5zm10-12zm13 3zm4-3zm13 0zm7 4zm0 3zm9-5zm6 7zm67-5zm77 16zm-15-6zm-1 12zm-18-3zm-3-2zm-12-7zm-2 2zm-8 9zm-16-2zm-5 0zm-7-7zm-25 6zm-4-4zm-16 3zm-3-2zm-22-5zm-27 8zm-11-2zm-29-6zm-2 2zm2 12zm10 8zm1-2zm16-6zm14 12zm11-12zm2 11zm3-5zm5 2zm4-3zm7 4zm23 1zm4-10zm5 11zm31-10zm14-1zm141 10zm2-2zm64 9zm0-4zm-209-1zm-16 7zm-19 1zm-7-6zm-1 11zm-2-5zm-6-3zm-24 5zm-8 1zm-17-6zm-19-4zm-3 2zm217 17zm37-2zm5-1zm2 5zm15 5zm52 4zm-3 5zm-22-2zm-4-5zm-8 7zm-4-1zm-10-6zm0 9zm-42-2zm11 17zm9-4zm11-6zm2 1zm33 8zm20-4zm7-1zm-15 10zm-40 1zm-30 0zm-17 10zm14 15zm1-2zm6-9zm69 0zm-119 16zm-48-4z" stroke="#CDA8A1" stroke-width="6.7" stroke-linecap="round" fill="none"/><path d="M1963 1935zm145 75z" stroke="#F93B29" stroke-width="6.7" stroke-linecap="round" fill="none"/><path d="M2066 1804zm37 13zm-161-7zm-131 22zm2-3zm196-2zm4 2zm22-1zm69 11zm-22-1zm-10-3zm0 2zm-124 3zm-107 4zm-2-2zm-2-3zm0-4zm-4 5zm0-2zm-1 1zm-3-3zm-6 9zm-1-9zm-1 12zm-3-13zm-5 12zm-1-3zm-1-1zm-5-6zm-2-3zm0 11zm-3 3zm-2-12zm-9 8zm-2-2zm-5 5zm-9 9zm0 5zm3-4zm1 3zm6-11zm3 5zm0 5zm2 2zm0-9zm4 0zm5 4zm1-7zm4 3zm0 2zm2 5zm0-6zm2-1zm1 4zm3-4zm2-4zm2 10zm1-10zm4 2zm0 11zm3-8zm0-1zm4 5zm5 2zm2-10zm4 2zm3 10zm5-2zm2 0zm2-6zm6 4zm108 1zm8 1zm116-1zm13-1zm16 10zm-13 0zm-6 8zm-22-7zm-15-4zm-5 12zm-209-5zm-8 1zm-1-10zm-6 0zm0 4zm-2 6zm-3 1zm-1-9zm-2 9zm-3 2zm-3-12zm0 11zm-2-8zm-4 0zm0 4zm-2 5zm-1-5zm-1-4zm0 8zm-1-4zm-3-5zm-1 5zm-3-3zm-1 8zm0-11zm0 4zm-1 5zm-1-3zm0-2zm0-4zm-3 5zm-3 5zm-7-7zm-2 5zm-5-6zm-3-4zm-4 10zm-2-1zm-3 0zm-4-2zm-4 2zm-5 19zm3-10zm7 10zm2-10zm0 6zm2-8zm1 7zm1-6zm0-2zm6 11zm2-10zm4 1zm0-2zm1 0zm1 11zm2-12zm0 6zm1 6zm0-8zm1 3zm2 2zm0-8zm1 11zm14 2zm0-7zm2 3zm2-4zm0-4zm3 8zm1-6zm0-2zm1 7zm1 3zm1-3zm1 2zm1-6zm1-3zm2 3zm1-2zm0 6zm3 4zm4-12zm1 12zm2-8zm1 6zm5-9zm2 7zm3-4zm5-2zm231 3zm24 20zm0-10zm-56 6zm-3 6zm-203-13zm-4 12zm-1-4zm-4-8zm-2 2zm-4 10zm-2-6zm-4-4zm-1-1zm-2 6zm0 2zm-1-7zm-1 10zm-1-4zm-6 2zm-3 1zm-2-11zm-1 10zm-4-10zm0 5zm-1 8zm-1-14zm-3 2zm-2 7zm-1-6zm-1-2zm-1 7zm-4-4zm-2 5zm0-5zm-1 10zm-5-1zm-1-7zm0-3zm-1-2zm-1 12zm-3-4zm-1-2zm-6 4zm-6-6zm-3 3zm2 13zm0 1zm1-4zm5-1zm6-2zm1 7zm0-5zm4 7zm3-6zm2 3zm1 4zm4-3zm1-2zm2 2zm3-5zm1 8zm1-11zm0 13zm8-9zm7-1zm2 6zm2-8zm7 5zm0 6zm14-1zm3-11zm0 4zm1-2zm217 1zm-34 16zm-9 4zm-18-2zm-119-2zm-18 6zm-32 2zm-21-9zm-9 5zm2 14zm3-5zm39 0zm45-3zm166 9zm-44 12zm-9 3zm-25-5zm-34-2zm-20 4zm-3-3zm-23-3zm-9 9zm-50 2zm-1-3zm-24-4zm74 17zm17 2zm3-6zm24 2zm24 0zm39 3zm184 9zm0-3zm-25 3zm-13 7zm-2-2zm-68 1zm-150 2zm-20-7zm-13-1zm-18 1zm138 9zm3 2zm15-1zm37 12zm3-14zm4 7zm1 6zm3 0zm2-5zm2-1zm9 4zm10-5zm2 5zm1-10zm1 6zm2 5zm2-7zm6 6zm6 2zm4-6zm8 4zm0 3zm3-2zm2 1zm4-4zm2 5zm12-7zm3 1zm8 4zm2-8zm19 21zm-3-4zm-9 3zm-9-10zm-1 5zm-3-1zm-1 3zm-8 2zm-1-2zm-7 0zm-8 6zm-3-13zm-10 4zm-5 9zm0-10zm-2-2zm-4 10zm-1 3zm-1-5zm-5 4zm-2-9zm-16-2zm-5 9zm-3-4zm-10-2zm-2-2zm-43 4zm9 19zm32 0zm1-6zm3 2zm1 3zm3-3zm1-7zm4 12zm6-6zm3-3zm6-3zm2 10zm3-6zm5-4zm0 5zm4 8zm0-10zm3 8zm0-6zm1-2zm6 6zm1 3zm10 1zm0-4zm2-8zm5 5zm3 6zm1-12zm5 1zm11 6zm1-1zm7-1zm2 2zm3-6zm5 9zm8-4zm-4 12zm-1 3zm-3 0zm-2 0zm-8-8zm-9 12zm-1-10zm-7 12zm-1-3zm-1-10zm-6 10zm-3 0zm-7 0zm-6-4zm-3 2zm-4-5zm-18 3zm-1-7zm-8 13zm-1-3zm-4 2zm-1-10zm0 8zm-5-4zm-2 5zm-1-5zm0 2zm-7-5zm-15 2zm-153 9zm120 6zm64-1zm13 2zm10-4zm2 2zm10 3zm1-4zm2 5zm2-6zm4-1zm3 11zm0-11zm7 0zm4 11zm1-7zm3 3zm9-4zm0 6zm6-2zm6-7zm1 5zm0-3zm1 5zm2-2zm-4 8zm-3 1zm-6 2zm-4 1zm-9-3zm-10 4zm-1 2zm-6 1zm0 2zm-3-3zm-4 1zm0-8zm-2 7zm-1-7zm-1 3zm-2 7zm-4-8zm0 8zm-1-4zm-38 3zm-162-6zm-22 35zm16 1zm25-3zm112-5zm35 10zm3-11zm-3 17zm-4-1zm-1-2zm-5-1zm-134 2zm-2-2zm-11 1zm-32 7zm-3-7zm7 13zm8 10zm2 1zm6-9zm4-1zm10 4zm10-1zm1 3zm5-6zm2 6zm3-8zm12 9zm1-3zm-25 12zm-5-5zm-10 4zm-5-2z" stroke="#DD9283" stroke-width="6.7" stroke-linecap="round" fill="none"/><path d="M1965 1803zm17-3zm5 3zm8-1zm1-3zm4 2zm9-6zm3 2zm4 2zm2 0zm3 0zm2 3zm2-1zm2-6zm4 8zm0-4zm3 6zm1-7zm9-2zm6 5zm2 5zm48 8zm-2 4zm-1-3zm-5-2zm-2-2zm-8 1zm0-4zm-6 3zm-14 1zm-2-3zm-4 8zm-17-4zm0 6zm-1-11zm-7 2zm-1 5zm-10-9zm-1 9zm-4-2zm0 5zm-4-10zm-3 4zm-3 4zm-1-3zm-6-3zm-1 6zm-2-4zm-8-4zm-5 3zm-3 4zm-9 1zm-3-6zm-5-3zm-3 3zm-3 4zm-1-5zm-2-2zm-3 4zm-3 9zm-9-9zm-7 4zm-9 4zm2 2zm1 5zm7-4zm13 0zm2 9zm1-8zm1 3zm3 0zm2-1zm6 7zm16-5zm3-1zm3-6zm1 6zm0 3zm5 2zm5-8zm4 2zm4 4zm5-8zm1 10zm10-9zm5 5zm5 6zm9-12zm11 1zm13 3zm1-3zm7-1zm4 10zm5 2zm1-11zm1 6zm2-8zm1 12zm10-11zm2 2zm3 1zm0 3zm1-6zm0 2zm4 4zm3 5zm6 14zm-3-3zm-4 0zm-5-3zm-1 7zm-10-13zm0 9zm-3-5zm-5 7zm-3 2zm-2-11zm-6 4zm-2 4zm-1-7zm-3 6zm-4 0zm-4-2zm-39-5zm-1 3zm-4-5zm-7 5zm-1 6zm-2-8zm-1 9zm-9-8zm-4 3zm-6 1zm-1 4zm-2-2zm0-4zm-5 8zm-4-6zm-1 5zm-1-2zm0-6zm-3-1zm-6 0zm-3-3zm-4-1zm-6 13zm-2-1zm-89 1zm-14-7zm-2-4zm-18 8zm-34 3zm-10 12zm23-7zm27 1zm15-5zm0 9zm5-4zm1 6zm5 1zm6-1zm0-2zm98-8zm1 12zm1-3zm1-6zm2-3zm3 1zm2-1zm1 9zm9 2zm0-11zm1 5zm5-5zm0 8zm2 2zm10-10zm59 0zm1 8zm6-5zm1 4zm0 4zm3-1zm3-6zm3 8zm4-5zm1 4zm6-9zm1 10zm11-11zm10 8zm6-10zm4 2zm0 11zm-8 9zm-8-3zm-3 2zm-27 0zm-6-2zm-8 6zm-36-7zm-6-3zm-3 6zm-22 7zm-4-7zm-5 3zm-10 3zm-2-7zm-2-3zm0-3zm-1 7zm0 7zm-1-4zm-2-3zm-3 3zm-88-1zm-4-1zm-5-2zm-3 7zm-12-13zm-2 12zm0-10zm0 12zm-14-13zm-61 1zm-1 26zm22-8zm2 2zm18 2zm10 0zm15-8zm7-1zm3 0zm11 8zm2-4zm0 8zm4-11zm1 11zm13-5zm106-5zm3 2zm12-3zm0 7zm6-2zm5-6zm1 1zm3 1zm42 11zm8-14zm5 11zm1-9zm4 5zm4 3zm2 2zm5-3zm0-4zm1-3zm1 9zm4 1zm7-7zm0 3zm1 3zm4-10zm15 8zm2-7zm4-2zm-23 17zm-5 7zm-11 1zm-1-9zm0 3zm-3 4zm-5-3zm-7 1zm-3 1zm-6-2zm-5 2zm0 5zm-9-2zm-167 2zm-4-7zm-5 1zm-8-3zm-4-1zm-11-3zm-2 6zm-1-2zm-27 7zm-49 6zm36 8zm4-5zm70 2zm7-5zm1 8zm119 1zm8-2zm3 0zm0-2zm3 2zm3 0zm4 0zm1-2zm5-4zm1 7zm1-9zm4 2zm0-4zm6 11zm0-4zm1-4zm2 7zm1-6zm0 2zm5 5zm6-7zm8 8zm5-8zm3 3zm10 4zm6 2zm2-10zm-9 11zm-11 5zm-10 6zm-7 1zm-5-1zm0-7zm-2 10zm-3-9zm-1-2zm-9 0zm-5-3zm-5 3zm-4 0zm-8 9zm-2-9zm-7-2zm-3 12zm-5 0zm-5-9zm-3 9zm-4-1zm-29 0zm-68-2zm-15-1zm-2 2zm0-10zm-2 11zm-1-4zm-3 4zm-7-3zm-9-3zm-1 2zm-2 2zm-7 2zm-1-6zm-2-3zm-2 10zm-2-5zm-2 3zm-4-8zm-4 0zm-8 1zm-12 3zm-4-1zm0-3zm-3 9zm-3 9zm8-5zm1 8zm4-4zm4 1zm3 6zm3-3zm0-8zm1 5zm3 3zm10-6zm2 3zm3 1zm2-3zm1 2zm5-2zm0 3zm6-2zm6-3zm1 3zm12-6zm2 6zm2 7zm0-3zm7 3zm2-3zm15-3zm4 4zm39 1zm1-5zm1 6zm4 0zm2-5zm0-4zm5 7zm2-11zm3 4zm0 3zm1-6zm4 9zm2-4zm11-1zm7 0zm2 9zm2-9zm2 3zm2-2zm2-4zm4 2zm1 3zm9-6zm9 7zm3-6zm5 1zm2 10zm3-3zm4-10zm14 3zm2 3zm23-5zm-43 17zm-3-3zm-3 7zm-2 3zm-2 1zm-4 0zm-3-4zm-1 3zm-1 2zm-4-3zm-1 4zm-11-5zm-2 4zm-5-5zm-2 3zm-13 2zm-3-8zm-2 8zm-7-5zm-1-8zm-5 14zm-9-2zm-3-10zm-2 7zm-1-8zm-5 3zm-3-1zm-8 6zm-4-5zm-6 5zm0 3zm-1-6zm-5 2zm-9-1zm-6-2zm-1 8zm-2-2zm-9-2zm-7 5zm-2-1zm-3-10zm-3 11zm-1-4zm-5 2zm-1-3zm-3-9zm-4 12zm-1-8zm-4 8zm0-11zm-4-1zm-5 12zm-11-11zm-2 1zm-2 6zm-3 4zm-8-1zm-1-3zm-5-1zm13 9zm4 3zm17 0zm1 8zm15-9zm3 0zm6 6zm1-5zm3 5zm2-7zm3-1zm0 7zm0 3zm1-5zm1-6zm3 2zm1 6zm6 5zm11-9zm10-1zm5 5zm6-1zm5-6zm0 4zm1 8zm2-11zm7 2zm7 3zm3 4zm0-4zm15-6zm0 10zm6-12zm1 6zm5-1zm10 4zm15 1zm6-5zm4-3zm3 2zm1-3zm93 8zm72 3zm9-1zm2 3zm4-5zm-12 8zm-10 3zm-1-3zm-2 8zm0-10zm-1 4zm-1-2zm0 3zm-1 7zm-26-7zm0 7zm-9 1zm-6-8zm-16 1zm-54 6zm-27 0zm0-5zm-63-7zm-12 3zm-6 2zm-7 2zm-22 2zm-2 2zm-5-10zm-19 1zm-11-2zm-2 8zm-9 0zm-4-1zm-3-1zm-9-5zm-2 3zm-1-2zm63 11zm107 2zm3 0zm48 9zm23-4zm13-1zm37-3zm14 1zm20 17zm-45 3zm-13 0zm-6-7zm-6 9zm-207 7zm7 5zm156-1zm39-5zm12 1zm6 9zm29 0zm17-14zm2 8zm-23 9zm-6 1zm-20 5zm-16-2zm-48 5zm-3-1zm-112 3zm-28-1zm-15-13zm1 18zm7 2zm3 3zm1-5zm6 9zm85 0zm12-1zm1-5zm2 2zm18 1zm3 1zm1 2zm3-8zm4-3zm3 4zm13 5zm1-10zm1 3zm14 1zm19-1zm4-1zm8 9zm20-7zm6 9zm3-4zm13 0zm5-6zm4 3zm-38 13zm-38 0zm-2 5zm-2-3zm-1 3zm-11 1zm-4-2zm-3 3zm-3-2zm-16-1zm-2 2zm-9-11zm-8 6zm-3-6zm0 13zm-3-2zm-10-8zm-1 10zm-2-3zm-40-10zm-5 10zm-45 1zm0-10zm-5-1zm-1 10zm-2 2zm-1-2zm-4-2zm7 9zm48-2zm3 3zm1-4zm3 11zm0-5zm6-7zm4 4zm11 8zm3 1zm6-12zm1 6zm6 5zm1 2zm10-3zm6-9zm0 3zm3 7zm2-3zm2 2zm1-2zm3 0zm25-6zm6 3zm3 3zm2-3zm3 1zm8-6zm11 10zm1-10zm-46 24zm-6-1zm-5-2zm0 6zm-4-4zm-3-1zm-4-5zm-7 7zm-8-2zm-6-1zm0-8zm-4 11zm-3-11zm-15 12zm0-7zm-3 8zm-2-12zm-1 9zm-2-3zm-5 7zm-7-10zm0 4zm-6 4zm-2-4zm-6-6zm-1 3zm-58 14zm4 8zm32-1zm10-2zm4-8zm28 3zm1 6zm9-4zm2-1zm0-3zm6 7zm4-3zm4-4zm2-2zm10 0zm31 1zm2-1zm2 2zm28 0zm1 7zm3-5zm3 5zm7-3zm1 4zm-120 6zm-2 7zm-4-6zm-27 6zm-19 7zm12 0zm28-3z" stroke="#BEBEBE" stroke-width="6.7" stroke-linecap="round" fill="none"/><path d="M1775 1884zm68 29zm301 59zm-128 8zm-2 6zm4 3zm41 3zm12 8zm6-9zm30 8zm6-6zm31 6zm26 12zm-51-7zm-19 7zm-15-5zm-7 4zm60 17zm1-2zm14-5zm-2 21zm-4-2zm-21 4zm-8-7zm-7-1zm-10 1zm-30 3zm-5-1zm-178 14zm183 3zm5-6zm2 4zm0-5zm6-3zm41 11zm22 5zm-11 1zm-12-4zm-8 7zm0-6zm-23 4zm-226 34zm5-5zm15 2zm22 5zm8-7zm151 15zm-1 2zm-1-9zm-3 0zm-156 1zm-12 0zm-4 13zm-2-2zm-3-10zm-7 3zm-1-4zm-2 23zm3-6zm5 6zm8-8zm2 8zm5 2zm3-8zm2 5zm11 4zm7-12zm13 2zm-9 14zm-6-2zm-3 0zm-4 0zm-12 0z" stroke="#EC7C66" stroke-width="6.7" stroke-linecap="round" fill="none"/><path d="M1816 1846zm57 211zm-4-1zm-3-2zm-1 3zm-1 10zm1-9zm2 1zm2 4zm2 1zm2 4zm1 2zm1-6zm257-1zm-265 11zm-1-2zm9 27zm11 0zm23 9zm0-4zm-6-4zm-4 10zm-20 5zm28 1z" stroke="#FF1A0A" stroke-width="6.7" stroke-linecap="round" fill="none"/></g><path d="M864.5 887.2V1079.2H1110.7" fill="none" stroke="#000" stroke-width="1.8"/><text x="919.9" y="1099" font-size="15.6" text-anchor="middle" fill="#000">−4</text><text x="979.5" y="1099" font-size="15.6" text-anchor="middle" fill="#000">0</text><text x="1039.1" y="1099" font-size="15.6" text-anchor="middle" fill="#000">4</text><text x="1098.7" y="1099" font-size="15.6" text-anchor="middle" fill="#000">8</text><text x="855.5" y="931.4" font-size="15.6" text-anchor="end" fill="#000">5</text><text x="855.5" y="979.7" font-size="15.6" text-anchor="end" fill="#000">0</text><text x="855.5" y="1028" font-size="15.6" text-anchor="end" fill="#000">−5</text><text x="855.5" y="1076.4" font-size="15.6" text-anchor="end" fill="#000">−10</text><path d="M919.9 1079.2v4.4M979.5 1079.2v4.4M1039.1 1079.2v4.4M1098.7 1079.2v4.4M864.5 925.2h-4.6M864.5 973.6h-4.6M864.5 1022h-4.6M864.5 1070.3h-4.6" stroke="#000" stroke-width="1.8" fill="none"/><text x="986.4" y="1121.6" font-size="18.8" text-anchor="middle" fill="#000">UMAP_1</text><text x="822.7" y="982.7" font-size="18.9" text-anchor="middle" fill="#000" transform="rotate(-90 822.7 982.7)">UMAP_2</text><text x="983.7" y="880.6" font-size="22" text-anchor="middle" fill="#000">Ins1</text><linearGradient id="cg6" x1="0" y1="0" x2="0" y2="1"><stop offset="0" stop-color="#FF1A0A"/><stop offset=".5" stop-color="#EC7C66"/><stop offset=".92" stop-color="#BEBEBE"/><stop offset="1" stop-color="#BEBEBE"/></linearGradient><rect x="1129" y="935.8" width="20.8" height="105" fill="url(#cg6)"/><text x="1158.6" y="970.5" font-size="16.3" text-anchor="start" fill="#000">6</text><text x="1158.6" y="1001.2" font-size="16.3" text-anchor="start" fill="#000">4</text><text x="1158.6" y="1031.3" font-size="16.3" text-anchor="start" fill="#000">2</text><path d="M1129 964.7h4.2M1149.8 964.7h-4.2M1129 995.4h4.2M1149.8 995.4h-4.2M1129 1025.5h4.2M1149.8 1025.5h-4.2" stroke="#fff" stroke-width=".7" fill="none"/><g transform="scale(.5)"><path d="M2606 1831zm-49 32zm317 118zm1 58zm-203 64zm22 15z" stroke="#F25B47" stroke-width="6.7" stroke-linecap="round" fill="none"/><path d="M2757 1804zm47-10zm18 10zm33 0zm6 16zm-12-1zm-12-7zm-7 5zm-4 1zm-77-10zm-40 9zm-2-1zm0 8zm12-4zm4 11zm22-1zm29-7zm24 11zm4-4zm16 2zm53 10zm-31 3zm-111-9zm-1 4zm167 20zm-17 7zm-36 3zm-192-3zm220 12zm-10 16zm-2 8zm-8-8zm-1 6zm-7 3zm-180-7zm-10-2zm-9 2zm-28 16zm35-5zm150 9zm23-12zm42 1zm-45 17zm-5 8zm-6-4zm-3 4zm-10-3zm-6-9zm-132 4zm-25 6zm-4 0zm-5 0zm-21-5zm-30-1zm1 21zm10-7zm20 8zm4-13zm6 6zm50 2zm6-5zm12 8zm35-2zm6-3zm9-2zm18 1zm0 3zm13 3zm25 2zm13-3zm-25 13zm-35 0zm-8 2zm-11-1zm-2-4zm-39-3zm-17 11zm-20-13zm-6 5zm-6 8zm-15-12zm-16 3zm-22 0zm31 20zm3 0zm3 0zm20-9zm23-1zm9 12zm2-11zm14 5zm4-4zm21 8zm17-4zm7-3zm5-3zm8 12zm24-11zm-41 19zm-6-2zm-27-1zm-3 3zm-6 3zm-24 0zm178 64zm-6 11z" stroke="#CDA8A1" stroke-width="6.7" stroke-linecap="round" fill="none"/><path d="M2619 1833zm6 3zm-3 1zm-1 4zm-13 5zm-4-9zm-21 8zm-12 8zm4 7zm15-3zm3-8zm14 8zm7 4zm9-1zm4-6zm5-3zm3-2zm3 4zm1 19zm-7-7zm-14 9zm-19-9zm-22 7zm-1-3zm-21-7zm8 19zm5-3zm6 0zm2 6zm6-5zm3 6zm1-5zm4 1zm11 9zm9-2zm6-9zm3 1zm11 1zm-18 11zm-1 3zm-3-1zm-34 2zm-10 5zm18 4zm2 0zm6 0zm7 7zm14-4zm4-1zm-47 12zm222 62zm62 5zm73 14zm-9-3zm-5 3zm-2-5zm-21-4zm-25-1zm-8 3zm-8-3zm-9 10zm-48-9zm59 12zm4 1zm36 7zm23 3zm17-9zm2 7zm3-1zm10-8zm10 11zm4 2zm-18 8zm-6-6zm-6 12zm-14-12zm-4 3zm-13 8zm-12-2zm-8 1zm-39 3zm27-1zm1 3zm8 9zm4-2zm11-7zm2 8zm1-11zm2 14zm22-10zm4 8zm1-1zm4-5zm8-3zm12 7zm1-5zm-2 10zm-21 7zm-2 4zm-13-5zm-4 1zm-8-7zm0 9zm-3-3zm-2 3zm-2 3zm-7-9zm-25 3zm0-5zm-6 1zm33 17zm3 2zm5 5zm4-2zm2-4zm12-1zm3-4zm17-2zm-246 18zm-29 23zm4-9zm7 5zm2 1zm21-2zm4 0zm146 4zm13 7zm-9 7zm-133-7zm-1 9zm-13 0zm-2-2zm-2-6zm-7-6zm-5 11zm-3 2zm-3-12zm-3 10zm-4-10zm-1 6zm-8 11zm3 1zm1 3zm8-5zm2 6zm2 3zm23 1zm2-12zm6 10zm4-7zm1-2zm23 5zm1 2zm-10 5zm-32 7zm-4 0zm-13-6z" stroke="#EC7C66" stroke-width="6.7" stroke-linecap="round" fill="none"/><path d="M2946 1975zm-294 82zm-5-1zm-4 13zm4-1zm0-10zm3 8zm1-4zm0 5zm2-6zm4 9zm0-8zm1 9zm248-11zm-255 15zm-2-2zm49 24z" stroke="#FF1A0A" stroke-width="6.7" stroke-linecap="round" fill="none"/><path d="M2747 1806zm9-4zm3-1zm5 5zm3-2zm4 1zm12-9zm3 3zm3-3zm15 6zm3-6zm2-2zm38 9zm22 7zm-1 9zm-2-4zm-5-6zm-2 1zm-2-2zm-1 5zm-1-2zm-3 6zm-1-8zm-1-3zm-1 6zm-3-4zm-9 1zm-9 4zm-12 0zm-3-7zm-15 1zm0 9zm-7-9zm-2 11zm-2-9zm-8 1zm-1-2zm-2 4zm-2 4zm-2-6zm-3 1zm-2-3zm0 8zm-15 1zm-6-1zm0-4zm-4 1zm-3-2zm-27 9zm-2-5zm-89 15zm81-8zm2-1zm10 0zm2-1zm4 6zm4-4zm13 7zm12-1zm2-3zm1 5zm3-5zm0 8zm3-7zm0 5zm1-10zm3 12zm6-1zm2-5zm0-5zm0 8zm2-1zm3 3zm4-1zm1-5zm5-2zm1 7zm3-1zm0-3zm10 4zm1-4zm3-2zm1 8zm8-5zm1 3zm1-5zm19-1zm7 6zm2-8zm5 5zm6 5zm3-4zm4-1zm1 2zm8-1zm16 1zm0-9zm16 27zm-8-7zm-1 5zm-4-11zm-3 2zm-5-1zm-2-2zm-2 13zm-2-1zm-7-6zm0 4zm-1-9zm-2 4zm-2 4zm-3-5zm-1 10zm-2-9zm-1 7zm0-4zm-6-8zm-1 2zm-5 9zm-34-10zm-13 8zm-3 0zm0-4zm-1 2zm-1-4zm-2 5zm-1 5zm-6 1zm-2-4zm0-10zm-11 8zm-2-2zm-3-5zm-3 11zm-4-3zm-1 2zm-9 3zm-1-8zm0 6zm-1-9zm-2 10zm-1-7zm-3 6zm-5-9zm-2 5zm-1-4zm-4 5zm-10-9zm0 5zm-82 7zm-4 0zm-2-7zm-2 8zm-14-3zm-16-7zm-3 9zm-25 7zm5-4zm13 7zm12 0zm18-6zm11 8zm7 0zm92-7zm7 1zm0-2zm5 3zm3 3zm3-2zm4 7zm2-7zm1 8zm2-6zm1-3zm1 3zm2-7zm3 8zm4-5zm10 0zm28 7zm11-8zm25 3zm1-3zm2 6zm7-7zm1 4zm2-6zm10 8zm6-2zm2 3zm2 4zm4-3zm3 2zm3 1zm0-5zm4-4zm4-2zm2 8zm5-4zm0 5zm4-8zm1 10zm5 8zm0 4zm-1-2zm-3-1zm-2-7zm-2 6zm-3-1zm-10 2zm-2 3zm-2-3zm-5 0zm-4 4zm-5 1zm-4-4zm-5 0zm0-5zm-3 7zm-2 1zm-2-7zm-2 7zm-1-6zm-3 3zm-44-3zm-3-2zm0 4zm-2-5zm-16 7zm-8 2zm-19-7zm-4-3zm-5 2zm-1-3zm-2 3zm-7 1zm-94 0zm-4 8zm-10-7zm-2 1zm0-3zm-1-3zm-23 6zm-14-2zm-5-2zm-18 2zm-23 16zm26 0zm44-4zm21 11zm2-13zm9 6zm4-3zm12 0zm87-1zm15 0zm3 4zm4-6zm14 5zm11-6zm44 9zm3-2zm0 2zm0 3zm8-7zm4 3zm3 6zm1-9zm4-1zm3 7zm1-6zm7 2zm3 2zm11 2zm0-6zm15 1zm-20 9zm-4 6zm-5 2zm-1-6zm0 10zm-4-6zm-4-2zm-7 3zm-5-6zm-4 2zm-4 6zm-207-3zm-6-6zm-66 4zm-13 1zm49 17zm6 3zm5 1zm8-4zm19 4zm9-4zm142 3zm3-2zm12 4zm12-9zm2 8zm3-1zm10 0zm14-5zm5 3zm1 3zm4-11zm2 0zm3 2zm12 0zm2 3zm1-7zm2 2zm1 6zm3-4zm9-3zm-30 15zm-8 6zm-1 3zm-1-10zm-2 5zm-1-5zm-1 4zm0 9zm-2-11zm-3 8zm0-4zm-6 3zm-2-3zm-1 2zm-9-8zm-5 9zm-5-1zm-2-3zm0 6zm-5-6zm-8-2zm-1 9zm-14-7zm-11 5zm-8-2zm-10 2zm-88-3zm-8 0zm-5-1zm-10 3zm0 3zm-19-6zm-6 6zm-4-8zm-19 9zm-1-6zm-5-1zm-1 6zm-1-9zm-8 9zm-1-2zm-2 4zm12 3zm1 7zm7-6zm3-1zm2 3zm2 4zm5-2zm0-5zm1-2zm3 0zm1 10zm3-1zm3 1zm3 0zm6 0zm4-5zm8 1zm3 4zm11-9zm1 5zm6-6zm14 3zm6 8zm62-10zm11 7zm0-7zm2 8zm1-9zm2 5zm1-2zm1 7zm8-11zm9 9zm4-8zm2 10zm1-6zm6 1zm9 1zm1-2zm0 7zm5-4zm2-2zm1-3zm4 10zm3-2zm8-9zm0 2zm2 4zm3 4zm2-10zm3 0zm1 5zm2-7zm1 2zm-9 13zm-3 0zm-1 3zm-1-3zm-2 4zm-2 1zm-1-6zm0 3zm-3 0zm-3 7zm-18-10zm-1 6zm-4-6zm-2 6zm-3-4zm-1 4zm-8-3zm-3 2zm-11 5zm0-4zm-1 7zm0-11zm-1 8zm-2-10zm-2 11zm-1-10zm-7 5zm-1-5zm-3 0zm-7 2zm-1 3zm-1-7zm-6 14zm-8-2zm-12-7zm0 3zm-3 5zm-7 1zm-4-5zm-1-2zm-5 1zm-11-6zm-3 11zm-16-6zm-4 2zm-2-4zm0 3zm-1 2zm0-7zm-6 5zm-3-2zm-13 0zm0 4zm-2-8zm-8 3zm-7 1zm-2-2zm-19 4zm-14-5zm17 15zm6-2zm8 6zm8-7zm1 6zm5-3zm16 4zm1 4zm2-4zm7-8zm8 6zm1 6zm3-9zm2-1zm7 3zm1 6zm10-9zm1 10zm11 1zm2-1zm4-8zm6 9zm4-7zm7 0zm1-6zm6 7zm2-3zm9 8zm2-7zm24 1zm5-5zm8 7zm26-7zm84 10zm78 2zm3-4zm-5 8zm-16 11zm-6-4zm-9 0zm-7 1zm-18-2zm-10 1zm0-8zm-8 4zm-14-3zm-2 7zm-80-3zm-52-3zm-4-3zm-4-1zm0 3zm-7 6zm-8-3zm-11 6zm-10 2zm-8-4zm-4-7zm-3 6zm-6-4zm-3-2zm-8 7zm-1-9zm-23 2zm-3 4zm-1-3zm-2 2zm-3-2zm-6 0zm172 11zm43 1zm43 8zm23-7zm38 16zm-9 9zm-17 0zm-34-4zm-26-5zm-178 11zm8 10zm174-7zm1 3zm18-6zm21 1zm6 0zm14 10zm24 6zm-41 9zm-10-8zm-10 0zm-4 6zm-40 0zm-4 2zm-135-6zm-7 1zm-3 1zm-9-5zm-4 8zm-7-3zm-3 15zm12 1zm1-2zm2 3zm5-2zm21 0zm25-5zm15 8zm12-1zm39 1zm7-8zm3 1zm3 2zm12-9zm6 1zm3 0zm28 3zm16 1zm36-1zm3-4zm22 4zm5 1zm-45 12zm-5 2zm-42 4zm-3 1zm-1-5zm-2 3zm-5-7zm-3 2zm-3 7zm-11-4zm-1 3zm0 4zm-1-11zm-1 6zm-11-6zm-19 11zm-3 0zm0-5zm-9-6zm-26 3zm-2-2zm0-2zm-6 7zm-2-3zm-1 4zm-2 2zm-54-8zm-5 19zm2 3zm4-4zm44-3zm3 10zm2-11zm2-2zm4-1zm0 5zm2-1zm4 3zm3-6zm3 9zm5-5zm1-4zm8 3zm8 0zm7 6zm6-2zm0-7zm1 2zm14 4zm4-5zm8-1zm12 5zm17-3zm1 2zm3-1zm1 2zm4-4zm2 2zm4-2zm1 2zm-40 17zm-5 0zm-1 1zm-6 5zm-5-9zm-3 3zm-1-4zm-4-1zm0 9zm-1-3zm-3 6zm-1-8zm-6-6zm-4 0zm-6 11zm-2-6zm-6 1zm-2-4zm-4 7zm-15-2zm-7-1zm-3-1zm0 3zm-1-6zm-1 11zm-2-11zm-13 7zm-55 0zm-4 3zm-6 5zm15 2zm0 9zm18-10zm2-2zm15 2zm11 9zm5-2zm11-5zm1 3zm2-4zm2 3zm3 5zm0-6zm7 2zm5-1zm1-1zm10-1zm4 1zm76-4zm0 4zm1-6zm1 7zm5 2zm11-3zm-122 13zm-3-1zm-7 0zm-3 0zm-4 0zm-1 3zm-2 4zm-4-1zm-4-3zm-9-3zm-21 9zm8 3zm35 0z" stroke="#BEBEBE" stroke-width="6.7" stroke-linecap="round" fill="none"/><path d="M2750 1805zm44-6zm26-4zm56 24zm-56-10zm-45 9zm-25 1zm-15-4zm-2-6zm-1 3zm-10-3zm-1 5zm-138 19zm7-1zm4 0zm7-3zm148 2zm10-7zm23 5zm4-8zm35 3zm6-3zm13 4zm24 6zm9-10zm10 8zm7-3zm-16 14zm-17 4zm-60-5zm-168-2zm-1 4zm-3-3zm-1 9zm-2-2zm-3-6zm-3 4zm0-2zm-11-3zm-2 4zm0-2zm0 7zm-8-1zm0-8zm-6 0zm-4 5zm-3-1zm-2-6zm-4 5zm-21 18zm2 1zm7-1zm0-8zm2-1zm3 1zm2 5zm1-6zm1 4zm2 1zm2 1zm1 2zm0-9zm1 5zm1 2zm0-4zm0-2zm1 4zm1 7zm5-3zm3 3zm2-3zm9-8zm1 6zm0 2zm1 3zm1-5zm8 3zm2-1zm2-5zm3 9zm1-2zm2-7zm8-4zm1 8zm3-1zm3 1zm2-5zm2 3zm0-3zm3 2zm103 2zm25 1zm71-2zm9 2zm26-1zm2-3zm5-5zm15 10zm-2 6zm-3 2zm-14-3zm-20 1zm-4 5zm-4 2zm-218-8zm0 3zm-1 2zm-5 5zm-1-3zm-8-7zm0 10zm-3-1zm-1-3zm-1 5zm-1-7zm-1 9zm0-7zm-6 2zm-1-3zm-1 2zm-1 1zm-3 0zm0-9zm-5 12zm-1-1zm-1-5zm-3 7zm-1-6zm0 4zm-1 2zm0-8zm-3 9zm0-10zm0 3zm-7 3zm-3-5zm-2 5zm0-3zm-1 2zm0 4zm-2-3zm-7 2zm-1-2zm-1-2zm-2 2zm0-5zm0-3zm-3 10zm-1-7zm0 2zm-1 6zm-1-10zm0 2zm-1 7zm-1-5zm0 6zm-1-7zm-7-2zm-1 5zm-1 18zm6-12zm2 11zm4-5zm1 6zm1-12zm1 7zm4-8zm0 11zm4-1zm2 1zm0-2zm1-5zm1 5zm2-8zm1 2zm3 2zm2-4zm1 9zm2 3zm12-9zm2 3zm0-6zm4 6zm4 0zm7-3zm3 5zm0-4zm2 6zm0-3zm4-1zm0 3zm5-10zm16 7zm240-6zm2 8zm13-5zm1 3zm4-6zm-23 17zm-46 7zm-184-8zm-20 8zm-2-5zm-1-2zm-1 8zm-4 0zm-3-6zm-1 1zm-2 3zm-2-10zm-2 1zm-1 8zm-1 4zm0-8zm-2 7zm0-11zm0 3zm-3 6zm0 3zm-2-12zm-1 4zm-2-1zm-2 9zm-9-10zm0 4zm-3-4zm0 10zm-6-13zm-1 12zm0-7zm-3 8zm-2-7zm-2 1zm-3-5zm-3-1zm-1 13zm-1-12zm-2-1zm-3 10zm-1-4zm-4 6zm-2-1zm-5-11zm-1 3zm0 2zm-3 10zm6 6zm1-3zm1 5zm0-6zm6 6zm1-5zm1 7zm1-5zm0-6zm2 8zm4-3zm0 7zm1-4zm1 2zm0-5zm4 7zm1-7zm4 3zm2-1zm1-2zm1 2zm4-1zm2 4zm0 2zm3-10zm1-2zm6 4zm3 9zm0-2zm5-1zm2-6zm17-4zm33 8zm155 5zm13-7zm2 7zm46-11zm-103 19zm-9 0zm-97 1zm-7 4zm-38-7zm-1-5zm-17 8zm-8-6zm-8-2zm-5 3zm-13-2zm16 24zm7 1zm47-4zm21 3zm22 0zm0-3zm8 4zm50-6zm21 6zm18-1zm30 2zm24-13zm12 3zm-32 21zm-4 1zm-35-4zm-9-7zm-45 11zm-6-11zm-13 6zm0 6zm-32-5zm-6-3zm-2-2zm-7-3zm-12 4zm-3 3zm-5 5zm-12-6zm-7 0zm-2-1zm-4 3zm0 4zm-6-3zm-15-5zm31 18zm3 5zm5-3zm60-10zm11 10zm31 0zm8 0zm9-6zm28 2zm4-5zm1 4zm181 6zm1 3zm1-2zm6 0zm3 0zm-66 11zm-28 2zm-14 2zm-16-1zm-38-4zm-78-8zm-4 3zm-9-2zm-3 8zm-1-3zm-5-2zm-2 5zm-6-9zm-9 8zm-2-3zm-30 7zm-5-6zm-3-2zm-16-3zm162 15zm43 7zm3-6zm9 2zm2 1zm6 3zm4-4zm3-4zm3 1zm18 6zm2 5zm15-6zm17 4zm20-10zm3 12zm6 13zm-2-9zm-17 9zm-1-3zm-2 1zm0 4zm-5-3zm-1-7zm-5 3zm-13 6zm-15-1zm-18-5zm-6 5zm0-8zm-1 6zm-1-4zm-2 2zm-1-4zm-19 1zm-171 20zm4 2zm152-5zm20-2zm4 5zm1-3zm3 3zm4-10zm6 5zm0 5zm3-7zm3 2zm1-3zm3 7zm3-5zm8 5zm4-6zm2 2zm1 2zm10-7zm3 12zm20 0zm7-2zm3-8zm5 8zm5 3zm4-6zm4-1zm1 18zm-5-8zm-6 9zm-13-3zm-2 2zm-6-5zm-8 1zm-4-6zm-1 6zm-2-4zm-8 0zm-5-3zm-9 1zm0 10zm-2-7zm-3 2zm-4 7zm-3-10zm-1 2zm-18-3zm-163 26zm145-11zm15 2zm6-5zm5 9zm4 4zm1-6zm12 6zm4 0zm1-3zm1-8zm5 6zm8-3zm10 8zm2-11zm0 9zm1-6zm6 3zm0 3zm11 2zm6-13zm1 2zm1 11zm3 0zm2-3zm4-9zm-22 19zm-11-3zm-5 8zm-4-9zm-2 11zm-13-4zm-5 0zm-5-6zm-22 2zm-8 9zm-99-8zm-56 1zm-8 0zm-24 23zm6 9zm16 2zm26 0zm53-2zm100 8zm-2 0zm-3-3zm0 7zm-1-7zm-4 8zm-8 0zm-125 0zm-7-8zm-6 11zm-12-13zm-5 13zm-8-4zm-2-2zm-7 5zm-11-4zm16 7zm1 6zm1 2zm7-1zm11 4zm2-6zm7-5zm5 11zm2-6zm3-2zm5 8zm11-8zm3 9zm-44 4zm-16-2zm-2 3zm-3-1zm-2-1z" stroke="#DD9283" stroke-width="6.7" stroke-linecap="round" fill="none"/><path d="M2578 1873zm0 37zm169 50zm204 60zm-52 42zm-209 65z" stroke="#F93B29" stroke-width="6.7" stroke-linecap="round" fill="none"/><path d="M2797 1797zm3 2zm66 9zm-42 5zm-60 2zm-21-5zm-3-1zm-2-2zm-4 4zm-12 16zm10 4zm36-2zm26-2zm4 2zm64-7zm3-2zm25 12zm-20 6zm-18 6zm-12-3zm-78-1zm93 21zm33-3zm10 3zm-245 10zm-7 18zm209-6zm11-2zm16 12zm-5 7zm-11 1zm-207 2zm-17-9zm-29 21zm15-2zm30-1zm7-5zm159 8zm1-4zm29 12zm-29-2zm-32 0zm-13-1zm-16 3zm-27 7zm-69-7zm-14 0zm-5 7zm-11-3zm-3 0zm-15 3zm-7-4zm-38 1zm2 14zm2-5zm28 8zm2-3zm5-1zm5-4zm15 1zm1-2zm1 3zm28-5zm62 7zm1-4zm28 1zm6 0zm37 21zm-78-10zm-3-1zm-16 5zm-6-1zm-4 1zm-61 6zm-1-8zm-29 15zm17 0zm17-1zm3 0zm5 6zm2-8zm7 7zm2-2zm4-4zm1 6zm0-2zm6 7zm10-9zm15 7zm1-3zm10-7zm21 6zm48 2zm117 0zm76 4zm-18 3zm-219 1zm-1 3zm-5-1zm-6 2zm-48-5zm-26 5zm-17-7zm295 16zm-62 78zm-3 0zm-109 27zm53-1zm16-5zm-5 13z" stroke="#CDA8A1" stroke-width="6.7" stroke-linecap="round" fill="none"/><path d="M2744 1938zm-82 163z" stroke="#F93B29" stroke-width="6.7" stroke-linecap="round" fill="none"/><path d="M2552 1863zm13 16zm27 66zm252 79zm-153 88zm7 17z" stroke="#F25B47" stroke-width="6.7" stroke-linecap="round" fill="none"/><path d="M2742 1805zm8-2zm22 0zm3-2zm5 1zm1-3zm8 3zm5-7zm9 4zm5 3zm2-1zm5 2zm3 2zm1-7zm9-2zm6 5zm3 5zm51 11zm-4-3zm-1 4zm-2-3zm-4-2zm-3-2zm-7 1zm-6-1zm-9 1zm-6 0zm-6 5zm-9-3zm-7 5zm-8-9zm-12-4zm0 9zm-4-2zm0 5zm-5-10zm-2 4zm-3 4zm-1-3zm-6 5zm-1-8zm0 6zm-3-4zm-8-4zm-1 11zm-15-3zm-3-6zm-6-3zm-4 0zm-2 7zm-14-4zm-3 1zm-2 5zm-6-1zm-6 11zm7-4zm20 4zm2-1zm7 7zm16-5zm3-1zm2-6zm1 6zm10-3zm5 2zm4 4zm5-8zm1 10zm10-9zm4 5zm2 5zm11-4zm2-7zm11 1zm13 3zm0-3zm8-1zm4 10zm6-3zm4 4zm9-11zm2 2zm3 1zm1 3zm0-6zm1 10zm4-4zm3-5zm6 24zm-4-3zm-3-4zm-6 1zm-1 7zm-9-13zm-7 4zm-2 7zm-2 2zm-2-11zm-3-1zm0 2zm-3 3zm-3-3zm-4 9zm-3-3zm-44-7zm0 3zm-5-5zm-6 5zm-1 6zm-2-11zm-1 3zm-10 1zm0 10zm-3-7zm-6 1zm-1 4zm-2-2zm-6 4zm-3-6zm-1 5zm-1-2zm0-6zm-4-1zm-6 0zm-2-1zm-1-2zm-3-1zm-3 6zm-3 7zm-3-1zm-88 1zm-13-3zm-1-4zm-23-5zm-43 26zm31-8zm36 4zm0 4zm3-5zm7 4zm7-3zm79-7zm19-1zm0 12zm1-3zm1-6zm2-3zm3 1zm0 8zm3-9zm1 9zm5 1zm4 1zm0-11zm1 5zm4-5zm1 8zm1 2zm10-10zm59 0zm2 8zm6-5zm0 4zm1 4zm6-7zm3-1zm4 4zm0 4zm6-9zm1 10zm7-3zm5-8zm16-2zm3 2zm5 17zm-12 3zm-1-3zm-7 8zm0-8zm-3 2zm-8-5zm-10 11zm0-7zm-3 8zm-12-9zm-1-3zm-6-1zm-1 10zm-36-7zm-7-3zm-3 6zm-21 7zm-4-7zm-6 3zm-9 3zm-2-7zm-2-3zm0-3zm-1 7zm0 7zm-2-4zm-2-3zm-2 3zm-93-2zm-21-6zm-5-2zm-19 1zm-10 11zm-14-5zm-3 5zm-22-2zm44 15zm7-2zm20-8zm1 4zm13-5zm2 13zm18-5zm105-5zm4 2zm11-3zm1 7zm5-2zm5-6zm2 1zm2 1zm43 11zm8-14zm5 11zm0-9zm2 8zm8 2zm5-3zm2-7zm4 3zm1 7zm6-7zm1 3zm1 3zm2-4zm2-6zm15 8zm2-7zm4-2zm-20 16zm-14 5zm-6-5zm0 3zm-6 7zm-7-8zm-2 3zm-3 1zm-6-2zm-6 2zm0 5zm-3-2zm-3-3zm-2 6zm-171-8zm-5 1zm-2-7zm-10 3zm-13 3zm-1-2zm-5 9zm-5-12zm-49 21zm2 0zm6 5zm14-10zm15 11zm14-12zm2 11zm4-8zm6-3zm23 4zm14 5zm120 1zm8-2zm2 0zm0-2zm4 2zm1-4zm2 4zm4 0zm7 1zm1-9zm3 2zm1-4zm9 10zm0-4zm6-3zm1-3zm5 4zm7 8zm6-8zm2 3zm10 4zm4-1zm3 3zm2-10zm-19 22zm-3-8zm-5 9zm-3-1zm-2 2zm-5-1zm-6-8zm-4 1zm-10-2zm-5-3zm-5 3zm-4 0zm-2 2zm-1 2zm-6 5zm-3-3zm-3-2zm-3-6zm-3 12zm-5 0zm-4-9zm-3 1zm0 8zm-5-1zm-96-2zm-8-4zm-6 6zm-2-3zm-5-1zm-2 4zm-9-1zm-7-5zm-1 2zm-3 2zm0-2zm-7-2zm-2-3zm-2 10zm-5-2zm-4-8zm-1 10zm-2-10zm-19 1zm-1 3zm-5-1zm-3 6zm-3 9zm8 0zm1-5zm5 4zm3 1zm3-6zm4 9zm0-8zm0 5zm3 3zm6 1zm4-7zm2 10zm1-7zm6 0zm2-5zm2 3zm1 3zm5-2zm10-4zm10-2zm2 6zm1 7zm1-3zm6-1zm0 4zm9-9zm5 7zm4-4zm3 4zm39 1zm2-5zm0 6zm5 0zm8-13zm4 7zm1-6zm9 2zm17 11zm1-9zm3 3zm2-2zm1-4zm4 2zm1 3zm10-6zm8 7zm4-6zm4 1zm3 10zm3-3zm3-10zm15 3zm2 3zm1 4zm22-9zm-35 21zm-8-4zm-3-3zm-3 1zm-1 6zm0 6zm-1-3zm-6 1zm-4-4zm-1 3zm-1 2zm-2-5zm-1 2zm-2 4zm-4-5zm-3 2zm-4-2zm-2 4zm-5-5zm-8 5zm-5-7zm-1 7zm-3-8zm-2 8zm-5-2zm-3-3zm0-8zm-2 11zm-4 3zm-8-2zm-7-8zm-5 0zm-3-1zm-8 6zm-9 0zm0 3zm-7-4zm0 1zm-9-2zm-6 6zm-3-2zm-5 0zm-3-9zm0 7zm-15 5zm-6-2zm-2-3zm-2-9zm-12 8zm-6 4zm-4 1zm-1-3zm-6-9zm-3 1zm-1 6zm-3 4zm-6-10zm-1 2zm-3 4zm0-2zm-4 1zm9 9zm4 0zm6 8zm0-2zm16 5zm1-11zm14 12zm9-9zm6-2zm0 5zm2-6zm1 10zm2-11zm1 9zm10 1zm14 0zm3-6zm11-3zm5 11zm3 1zm3-11zm1 4zm6-2zm6 3zm11-5zm2 4zm6 5zm6-12zm0 6zm1-4zm5 3zm10 4zm20-4zm5-3zm3-1zm94 8zm4 3zm67 0zm9-1zm7-2zm-12 8zm-2 2zm-1-3zm-7 4zm-3 5zm0-10zm-1 4zm-1-2zm-1 3zm0 7zm-11-8zm-13 7zm-2-6zm0 7zm0-3zm-10 4zm-6-8zm-15 1zm-38 4zm-43-5zm-60-6zm-4 1zm-32 7zm-6-6zm-3 6zm-5 2zm-2-5zm-5-3zm-10 4zm-8 4zm-4-5zm-4 6zm-5-10zm-1 8zm-8-3zm-3-1zm-5 2zm-9-5zm-3 1zm-5 0zm163 12zm12 1zm46-2zm5 11zm2 2zm28-6zm4-2zm53-1zm7 0zm-16 19zm-33-6zm-6 8zm-33-4zm-176 12zm6 5zm161 1zm32-4zm13-5zm3 11zm26-11zm19 4zm4-4zm5 9zm-8 14zm-25 2zm-17-4zm-9-3zm-30 6zm-4-4zm-3-2zm-18 6zm-4-1zm-111 3zm-28-1zm-15-13zm-2 14zm2 4zm8 2zm3-2zm91 9zm12-1zm2-5zm2 2zm1-3zm17 4zm2 1zm1 2zm3-8zm4-3zm3 4zm14-5zm2 3zm13 1zm13 4zm7-5zm20 4zm1-4zm3-1zm15 11zm-8 7zm-1-6zm-43 5zm-5 2zm-9 2zm-2 2zm-4-2zm-4 3zm-2-2zm-15-7zm-1 6zm-2 2zm-9-11zm-9 6zm-2-6zm-1 13zm-3-2zm-10-8zm0 10zm-3-3zm-39-10zm-5 10zm-45 1zm-1-10zm-5-1zm0 3zm-1 7zm-2 2zm-1-2zm3 7zm48-2zm3 3zm1-4zm3 11zm1-5zm6-7zm4 4zm10 8zm4 1zm5-12zm2 6zm6 5zm0 2zm16-12zm1 3zm2 7zm3-3zm1 2zm2-2zm2 0zm26-6zm9 6zm1-3zm12-5zm11 10zm1-10zm-10 16zm-36 8zm-6-1zm-5-2zm-1 6zm-3-4zm-8-6zm-7 7zm-8-2zm-5-1zm-1-8zm-3 11zm-3-11zm-15 12zm-1-7zm-2 8zm-2-12zm-3 6zm-5 7zm-7-6zm-7 4zm-7-10zm-2 3zm-57 14zm4 8zm15 1zm26-12zm1 8zm4-8zm28 3zm1 6zm9-4zm2-1zm0-3zm6 7zm4-3zm4-4zm1-2zm10 0zm31 1zm2-1zm31 9zm2-8zm4 8zm7-10zm1 7zm2 2zm-127 15zm-1-6zm-3-1zm-10 6zm-3-8zm-4 8zm-35 1zm-7-8zm40 17zm0-4zm4 0z" stroke="#BEBEBE" stroke-width="6.7" stroke-linecap="round" fill="none"/><path d="M2649 2057zm2-3zm3 2zm4 1zm1 7zm0 6zm-1-2zm-2-4zm-3-1zm-1-4zm-2-1zm-2 9zm3 5zm1 2zm197 37zm-155-3zm-1-4zm-30 1zm-8-2zm24 21zm13-8zm-3 15z" stroke="#FF1A0A" stroke-width="6.7" stroke-linecap="round" fill="none"/><path d="M2766 1800zm19 1zm21-2zm6-4zm4 4zm34 5zm9 9zm-15-4zm-21-1zm-9 7zm-16-4zm-32 0zm-20-1zm-15 10zm-6-7zm-18 6zm-111 13zm2-3zm111-8zm20 1zm3 1zm1 3zm10-1zm29 6zm39 2zm50 0zm22-10zm5 20zm-15 0zm-2 2zm-21 1zm-3-3zm-62 3zm-161-4zm-1-6zm-1 3zm0-4zm-4 5zm-1-2zm-1 1zm-1-4zm-3 11zm-2-7zm-2 1zm-1 5zm-1-9zm0 12zm-1-4zm-4 2zm-4 1zm0-3zm-2-1zm-6 2zm-3 3zm-3-12zm-3 9zm-6 2zm0-3zm-1-2zm-2 5zm-13 9zm2 3zm2 1zm7-11zm3 5zm0 5zm2 2zm3-9zm5 6zm1-2zm0-4zm0-3zm4 3zm0 2zm2 5zm3-7zm0 4zm4-4zm2-2zm2 8zm0-10zm5 13zm0-6zm0 3zm2-5zm1-1zm3 1zm0 4zm5 2zm2-10zm5 2zm2-3zm5 11zm1-6zm1 6zm2-6zm7 4zm1 2zm206 0zm37-2zm-33 12zm-12 7zm-192-1zm-3 0zm-2-7zm-3 7zm-5-1zm-4-3zm-3-9zm-1 12zm0 2zm-3-4zm-4-6zm-3-4zm0 4zm-4-3zm-2 10zm0-9zm-2 9zm-8-7zm-1 2zm-2 2zm-2-4zm0 4zm-2 5zm0-5zm-1-4zm-1 4zm-2-5zm-1 0zm-2 9zm-3 1zm0-11zm-1 9zm-1-3zm-1-2zm0-4zm0 9zm-14 1zm0-2zm-14-1zm-2-7zm-2 7zm-3-2zm-3 6zm-2-4zm-4 19zm3-10zm6 10zm3-10zm0 6zm2 4zm0-12zm0 7zm1-6zm1-2zm5 11zm1-4zm2-6zm5-1zm0 11zm2-12zm1 6zm0 6zm1-8zm0 3zm2-1zm1-5zm0 11zm1-4zm18-2zm0 2zm1 2zm2 0zm1-6zm0-2zm1 7zm1 3zm1-3zm1-4zm1-3zm1 8zm2-5zm0-4zm0 2zm4 10zm3-12zm1 12zm4-13zm0 11zm1-9zm6 7zm5-8zm2 2zm8 6zm2-4zm5-3zm214 8zm3-4zm5 5zm19 15zm-25-3zm-5-3zm-4-6zm-25 11zm-200-11zm-3 1zm-5 4zm-6-2zm-4 10zm-3-6zm0-3zm-4-1zm-1-1zm-1 6zm-1-5zm-2 8zm0-2zm-6 2zm-3 1zm-3-11zm-4 0zm-1 5zm-2-6zm-2 2zm-2 7zm-1-6zm-2-2zm0 7zm-2-4zm-3 0zm-1 3zm0 2zm-1-5zm-5 9zm-1-7zm-1-3zm0-2zm-2 12zm-1-12zm-2 8zm-6 2zm-6-6zm-2 16zm0 1zm7-5zm3 0zm3 5zm1-5zm3 7zm3-6zm4 7zm5-5zm5-3zm1 8zm0-5zm0-6zm7 13zm2-9zm3 7zm4-5zm1 3zm3-8zm214 7zm6-4zm13-1zm2 1zm5 7zm31 3zm-15 5zm-17 6zm-3 3zm-55-7zm-122 4zm-1-10zm-1 4zm-56-1zm-1 8zm-9-10zm-6 1zm4 21zm2-9zm20 3zm12 1zm35-3zm7 4zm3 4zm70 1zm6-7zm3 2zm2 4zm40 15zm-14-9zm-2 2zm-2 7zm-35-7zm-10 5zm-14 1zm-7-6zm0 4zm-17-1zm-9-5zm-1 3zm-20 9zm-2-1zm-3-10zm-3 7zm-10 0zm-8 2zm-1-11zm-4-1zm-31 11zm57 16zm1-3zm14-1zm24-5zm11 4zm5-2zm19 6zm16-10zm37 8zm13-6zm164 15zm0-4zm-253 12zm-2 0zm-7-1zm-46-3zm-17-4zm61 9zm110 2zm40 4zm16 1zm8 4zm7-4zm3-1zm2 5zm5 1zm3-4zm1-2zm10 7zm0-2zm4 2zm8-2zm0 3zm2-2zm3 1zm4-4zm17-1zm7 4zm22 13zm-7-4zm-4-4zm-4 5zm-6-8zm-4 4zm-2 3zm-10-1zm-4-5zm-2 6zm-6 1zm-1 5zm-2-3zm0-3zm-1-7zm-1 2zm-9 2zm-8-1zm-2 6zm-8 4zm-2-9zm-6 0zm-6 4zm-9 3zm-13-6zm-2-2zm-44 4zm9 19zm33 0zm0-3zm0-3zm9-5zm4 12zm6-6zm3-3zm5 7zm11-10zm0 5zm1-2zm3 0zm3 2zm0-2zm3-3zm3 9zm1-5zm5 9zm5 0zm0-4zm2-8zm5 5zm3 6zm2-12zm11 10zm2 3zm0-5zm3-1zm1-1zm9-3zm16 3zm-4 12zm-5 3zm-9-8zm-3 1zm-1 8zm-5 3zm-1-10zm-5 1zm-2 11zm-1-3zm-3-7zm-5 7zm-2 0zm-4-5zm-7-1zm-18 2zm-9 0zm-1-7zm-6 2zm-2 11zm-1-3zm-4-1zm-8 2zm-1-5zm-1 2zm-1 4zm-20-7zm11 20zm20-6zm1 6zm3 2zm1-2zm0-6zm8 2zm1-6zm9 2zm1 2zm23 0zm0-3zm5 12zm3-2zm1-2zm1 3zm2-7zm2 3zm8 1zm2-5zm0 6zm2-7zm6-2zm3 0zm2 5zm0-3zm1 5zm-3 6zm-3 1zm-2 1zm-7 2zm-8 0zm-11 1zm-2 2zm-6 1zm0 2zm-3-5zm-4-5zm-3 0zm-6 2zm0 8zm-1-4zm-113-7zm-94 9zm109 16zm49-5zm8 1zm-111 11zm-8 4zm-19-2zm-3 3zm-41 15zm19 1zm3-10zm7-1zm3 3zm2-2zm11 3zm140 1zm3 1zm-119 18zm-2-3zm-12-6zm-5 2zm-6 3zm-2 7zm-4-3zm-4-3zm-6-3zm-5-1zm-5-1zm-12-1zm-3 9zm16 7zm41-3z" stroke="#DD9283" stroke-width="6.7" stroke-linecap="round" fill="none"/><path d="M2568 1847zm21-13zm2 3zm23-1zm19 23zm-15-8zm-13-1zm-8-2zm-6 1zm-17 3zm-12 5zm-4 5zm4 4zm7 1zm14 1zm1-1zm4 3zm15 4zm2 1zm10-3zm6 6zm-6 3zm-1 8zm-6-11zm-8 9zm-8-9zm-2 8zm-1-7zm-1 4zm-1 7zm-10-1zm-4-4zm-8-8zm-28 21zm15-1zm11 7zm14-8zm3 8zm5-3zm12 2zm2-3zm20-1zm-2 9zm-1-4zm-17 12zm0-6zm-23-2zm-15 3zm-10-6zm-11 3zm388 64zm-100 15zm-27 0zm0-5zm-2 4zm-15 5zm16-1zm2-1zm35 13zm7-7zm0-3zm1 9zm5-5zm6 4zm6-9zm11 1zm0-3zm4 2zm8 8zm10-4zm3-2zm5 1zm11 8zm12-7zm3 4zm26 10zm0 2zm-9 1zm-10-5zm-13 2zm-27-6zm-1 9zm-2 0zm0-2zm-3 5zm-3-12zm-4 13zm-1-5zm-1 3zm-23-10zm-4 6zm-14 14zm24-7zm3 10zm2-6zm10 9zm3-2zm38-2zm16-2zm3-2zm2-6zm2 8zm4-3zm1 17zm-6 0zm-26-7zm-16 10zm-6-4zm-2-5zm-2 7zm-3-5zm-33-2zm-1 8zm-14-7zm-167 19zm11 1zm7 4zm173-9zm3-2zm8 1zm8 9zm11-3zm6-7zm2 11zm8-11zm22 7zm1-2zm10 0zm-14 11zm-7 0zm-5-2zm-21 6zm-3 1zm-2-1zm-2-4zm-2 7zm-8-6zm-227 34zm6-5zm1 5zm2 2zm11 0zm1-5zm2 4zm19 1zm153 1zm7 7zm-3-7zm-8 3zm-3 2zm-5-2zm-146 10zm-4-3zm-10 2zm-3-10zm-7 16zm6 8zm2 1zm6-9zm6 8zm5-3zm41-6zm-19 14zm-14 3zm-2-6zm-10 1zm0 3zm-4-2z" stroke="#EC7C66" stroke-width="6.7" stroke-linecap="round" fill="none"/></g><path d="M1256.8 887.2V1079.2H1503" fill="none" stroke="#000" stroke-width="1.8"/><text x="1312.2" y="1099" font-size="15.6" text-anchor="middle" fill="#000">−4</text><text x="1371.8" y="1099" font-size="15.6" text-anchor="middle" fill="#000">0</text><text x="1431.4" y="1099" font-size="15.6" text-anchor="middle" fill="#000">4</text><text x="1491" y="1099" font-size="15.6" text-anchor="middle" fill="#000">8</text><text x="1247.8" y="931.4" font-size="15.6" text-anchor="end" fill="#000">5</text><text x="1247.8" y="979.7" font-size="15.6" text-anchor="end" fill="#000">0</text><text x="1247.8" y="1028" font-size="15.6" text-anchor="end" fill="#000">−5</text><text x="1247.8" y="1076.4" font-size="15.6" text-anchor="end" fill="#000">−10</text><path d="M1312.2 1079.2v4.4M1371.8 1079.2v4.4M1431.4 1079.2v4.4M1491 1079.2v4.4M1256.8 925.2h-4.6M1256.8 973.6h-4.6M1256.8 1022h-4.6M1256.8 1070.3h-4.6" stroke="#000" stroke-width="1.8" fill="none"/><text x="1378.7" y="1121.6" font-size="18.8" text-anchor="middle" fill="#000">UMAP_1</text><text x="1215" y="982.7" font-size="18.9" text-anchor="middle" fill="#000" transform="rotate(-90 1215 982.7)">UMAP_2</text><text x="1390.5" y="880.6" font-size="22" text-anchor="middle" fill="#000">Ins2</text><linearGradient id="cg7" x1="0" y1="0" x2="0" y2="1"><stop offset="0" stop-color="#FF1A0A"/><stop offset=".5" stop-color="#EC7C66"/><stop offset=".92" stop-color="#BEBEBE"/><stop offset="1" stop-color="#BEBEBE"/></linearGradient><rect x="1521.3" y="935.8" width="20.8" height="105" fill="url(#cg7)"/><text x="1550.9" y="965.7" font-size="16.3" text-anchor="start" fill="#000">7</text><text x="1550.9" y="994.7" font-size="16.3" text-anchor="start" fill="#000">5</text><text x="1550.9" y="1023.2" font-size="16.3" text-anchor="start" fill="#000">3</text><path d="M1521.3 959.9h4.2M1542.1 959.9h-4.2M1521.3 988.9h4.2M1542.1 988.9h-4.2M1521.3 1017.4h4.2M1542.1 1017.4h-4.2" stroke="#fff" stroke-width=".7" fill="none"/></g>
<g id="panelD"><text x="1" y="1204" font-size="45.5" text-anchor="start" fill="#000">D</text><text x="402.5" y="1205.2" font-size="28.5" text-anchor="middle" fill="#000">Normal</text><text x="999.5" y="1205.8" font-size="28.5" text-anchor="middle" fill="#000">Early KIC</text><text x="1258" y="1211.5" font-size="28.6" text-anchor="start" fill="#000" transform="rotate(-26 1258 1211.5)">Late KIC</text><text x="1357" y="1215" font-size="28.6" text-anchor="start" fill="#000" transform="rotate(-26 1357 1215)">Late KPfC</text><text x="1466.5" y="1211" font-size="28.6" text-anchor="start" fill="#000" transform="rotate(-26 1466.5 1211)">Late KPC</text><pattern id="yN1" width="346" height="90" patternUnits="userSpaceOnUse" x="0" y="1221.6"><path d="M222 1h2M36 9h2m296 0h2M24 11h2m76 0h2m174 0h2M8 15h2M254 21h2M330 23h2M36 27h2m58 0h2m208 0h2M24 29h2m22 0h2M104 39h2m120 0h2M276 45h2M334 47h2M192 49h2m108 0h2M120 55h2m108 0h2M72 61h2M102 63h2M34 65h2M204 67h2m100 0h2M66 77h2M278 83h2M68 85h2m218 0h2M24 87h2" stroke="#e9da30" stroke-width="2" fill="none"/><path d="M34 1h2m66 0h2m122 0h2m18 0h2M42 3h2m124 0h2m26 0h2M104 5h2m10 0h2m52 0h2m156 0h2M36 7h2m40 0h2M26 15h2m2 0h2m138 0h2m104 0h2m10 0h2M106 17h2M282 19h2M24 21h2m194 0h2M94 23h2m106 0h2M148 27h2M330 29h2M336 31h2M34 35h2M116 37h2M38 39h2m202 0h2M6 41h2m160 0h2m74 0h2m12 0h2M172 43h2M4 45h2M20 47h2m182 0h2M244 49h2M208 51h2m74 0h2m32 0h2M96 55h2M168 57h2m112 0h2M138 59h2M106 61h2m80 0h2m112 0h2M0 63h2m244 0h2M40 65h2m56 0h2h2M318 67h2M52 69h2M286 71h2m12 0h2M180 73h2M110 75h2m112 0h2m80 0h2M302 77h2M194 79h2m36 0h2M30 81h2m116 0h2m90 0h2m88 0h2M102 83h2M30 85h2m142 0h2m106 0h2m24 0h2M0 87h2m220 0h2m84 0h2M18 89h2" stroke="#b7a23a" stroke-width="2" fill="none"/><path d="M172 1h2M248 5h2M40 15h2h2M194 17h2m44 0h2M28 19h2m298 0h2M40 29h2m60 0h2m102 0h2m98 0h2M44 31h2m52 0h2M106 35h2M120 37h2m96 0h2M214 39h2M200 41h2m24 0h2M238 45h2m90 0h2M52 49h2m126 0h2M54 51h2m84 0h2m28 0h2M248 55h2M36 57h2M220 67h2M188 71h2M172 73h2M194 75h2M184 79h2M306 81h2M14 83h2m260 0h2M218 85h2m44 0h2m68 0h2M40 87h2m142 0h2" stroke="#d8bc7c" stroke-width="2" fill="none"/><path d="M104 3h2m64 0h2m108 0h2m18 0h2M34 5h2m4 0h2m28 0h2m104 0h2m44 0h2m34 0h2M4 7h2m64 0h2m90 0h2m6 0h2M174 9h2m64 0h2m44 0h2M14 11h2M8 13h2m156 0h2m86 0h2m56 0h2M14 15h2M22 17h2m124 0h2M36 19h2m150 0h2m10 0h2m100 0h2M34 21h2M40 25h2m44 0h2m132 0h2m32 0h2M84 27h2M4 29h2m84 0h2m44 0h2m10 0h2M118 31h2m28 0h2M30 33h2m18 0h2m20 0h2m148 0h2M182 35h2m50 0h2M264 37h2m12 0h2M6 39h2m60 0h2m214 0h2M202 41h2m96 0h2M22 43h2h2m68 0h2M48 45h2m114 0h2m136 0h2M38 47h2m56 0h2m72 0h2M20 49h2M24 51h2m76 0h2m90 0h2m84 0h2M22 55h2M148 57h2M340 59h2M10 61h2m18 0h2m88 0h2m188 0h2m28 0h2M46 63h2M28 65h2m196 0h2M42 67h2m22 0h2m102 0h2m172 0h2M182 69h2m36 0h2m86 0h2M286 73h2M22 75h2m122 0h2M242 79h2M44 81h2m96 0h2m50 0h2m106 0h2m12 0h2M306 83h2M76 85h2m120 0h2m46 0h2M200 87h2m100 0h2M146 89h2m118 0h2" stroke="#857522" stroke-width="2" fill="none"/></pattern><pattern id="yN2" width="288" height="76" patternUnits="userSpaceOnUse" x="0" y="1235.6"><path d="M124 5h2m44 0h2M82 7h2h2M124 9h2m66 0h2m24 0h2M62 11h2m76 0h2M270 13h2M248 17h2M12 19h2M112 21h2m48 0h2m14 0h2M106 27h2m28 0h2M122 29h2M76 31h2M38 33h2m158 0h2M166 37h2m44 0h2M282 43h2M12 49h2m106 0h2M240 51h2M182 53h2M126 55h2M100 57h2m94 0h2M46 59h2M154 61h2m42 0h2m78 0h2M116 63h2m114 0h2M132 65h2M60 67h2M6 69h2M98 71h2m102 0h2M28 73h2m86 0h2M166 75h2" stroke="#e9da30" stroke-width="2" fill="none"/><path d="M104 1h2m96 0h2m46 0h2M158 3h2m78 0h2M80 5h2M36 7h2m86 0h2h2m66 0h2M58 9h2m136 0h2m84 0h2M0 11h2m10 0h2m266 0h2M10 13h2m14 0h2m2 0h2m92 0h2m34 0h2m6 0h2m70 0h2M62 15h2M118 19h2m128 0h2M156 21h2m16 0h2m48 0h2M188 23h2m4 0h2M138 27h2m92 0h2M160 29h2m80 0h2M36 31h2m202 0h2M26 33h2m28 0h2M6 35h2m76 0h2M56 37h2m60 0h2m28 0h2M68 39h2m36 0h2m22 0h2m62 0h2m32 0h2m54 0h2M16 41h2m46 0h2m90 0h2m34 0h2m86 0h2M192 43h2m12 0h2M6 45h2M72 47h2m20 0h2m16 0h2M102 49h2m26 0h2m30 0h2m122 0h2M82 51h2h2m18 0h2m12 0h2m74 0h2M170 55h2m34 0h2m24 0h2m2 0h2M26 57h2m36 0h2m50 0h2m38 0h2m120 0h2m2 0h2M120 59h2m52 0h2M28 61h2m46 0h2m128 0h2m26 0h2m44 0h2M82 63h2m40 0h2m22 0h2m44 0h2m8 0h2m44 0h2M82 65h2m34 0h2M122 67h2m6 0h2m100 0h2M80 69h2m44 0h2m40 0h2M138 71h2m26 0h2h2m44 0h2m32 0h2m36 0h2M58 73h2m24 0h2m36 0h2m14 0h2m94 0h2M176 75h2" stroke="#b7a23a" stroke-width="2" fill="none"/><path d="M192 1h2M62 3h2m140 0h2M158 7h2M96 9h2m20 0h2m70 0h2m80 0h2M116 11h2m72 0h2M168 17h2M232 19h2m8 0h2m42 0h2M190 23h2m38 0h2m18 0h2m34 0h2M32 27h2m26 0h2m98 0h2M130 29h2h2m62 0h2M138 33h2M2 39h2m66 0h2m194 0h2M2 41h2m176 0h2M200 43h2M46 45h2m12 0h2m104 0h2m22 0h2M154 47h2M36 49h2m42 0h2m46 0h2m152 0h2M162 51h2M212 53h2M118 55h2m74 0h2M132 57h2m140 0h2M6 59h2M170 63h2m84 0h2M62 69h2m58 0h2m66 0h2M104 71h2M116 75h2m38 0h2m6 0h2m100 0h2" stroke="#d8bc7c" stroke-width="2" fill="none"/><path d="M82 1h2M126 3h2m154 0h2M130 5h2m68 0h2M156 7h2m30 0h2m6 0h2m50 0h2M122 9h2m114 0h2M10 11h2m114 0h2m60 0h2m4 0h2M34 13h2m4 0h2m38 0h2m12 0h2m40 0h2m16 0h2m34 0h2m6 0h2m48 0h2m30 0h2M122 15h2m32 0h2M2 17h2m118 0h2m96 0h2M82 19h2m80 0h2h2M2 21h2m78 0h2m20 0h2m4 0h2m84 0h2M104 23h2m12 0h2m34 0h2m8 0h2M116 27h2m26 0h2m50 0h2h2M166 29h2m22 0h2M228 35h2m6 0h2m22 0h2M6 37h2m90 0h2m58 0h2h2m32 0h2m32 0h2M102 39h2m144 0h2M40 41h2m146 0h2m88 0h2M66 43h2m90 0h2h2h2m2 0h2m44 0h2M132 45h2M190 47h2m6 0h2M28 49h2m52 0h2m12 0h2m28 0h2M102 51h2m94 0h2m56 0h2M38 53h2m154 0h2m32 0h2M80 55h2m106 0h2M62 57h2m12 0h2m76 0h2m34 0h2m2 0h2M26 59h2m52 0h2m118 0h2m80 0h2M158 61h2h2m78 0h2m40 0h2M80 63h2m50 0h2m40 0h2m72 0h2m20 0h2M84 65h2m126 0h2M40 67h2m30 0h2m90 0h2m56 0h2m12 0h2m48 0h2M170 69h2m46 0h2M12 71h2M156 73h2m6 0h2m34 0h2m16 0h2M26 75h2m72 0h2m112 0h2" stroke="#857522" stroke-width="2" fill="none"/></pattern><pattern id="yNt" width="240" height="12" patternUnits="userSpaceOnUse" x="0" y="1221.6"><path d="M3 1h1.5m3 0h1.5m45 0h1.5m64.5 0h1.5m57 0h1.5M19.5 3h1.5m84 0h1.5m60 0h1.5m21 0h1.5m33 0h1.5m9 0h1.5m1.5 0h1.5M100.5 5h1.5m52.5 0h1.5m9 0h1.5m7.5 0h1.5m13.5 0h1.5M34.5 7h1.5m6 0h1.5m16.5 0h1.5m174 0h1.5M46.5 9h1.5m126 0h1.5M19.5 11h1.5m3 0h1.5m31.5 0h1.5m36 0h1.5" stroke="#e9da30" stroke-width="2" fill="none"/><path d="M0 1h1.5m3 0h1.5h1.5m4.5 0h1.5m1.5 0h1.5m7.5 0h1.5m1.5 0h1.5m1.5 0h1.5m1.5 0h1.5m4.5 0h1.5h1.5m6 0h1.5m1.5 0h1.5m4.5 0h1.5m3 0h1.5h1.5h1.5m3 0h1.5m1.5 0h1.5m1.5 0h1.5m1.5 0h1.5m1.5 0h1.5m4.5 0h1.5m4.5 0h1.5m3 0h1.5m15 0h1.5m10.5 0h1.5m6 0h1.5h1.5m1.5 0h1.5m4.5 0h1.5m9 0h1.5m7.5 0h1.5m1.5 0h1.5h1.5m3 0h1.5m3 0h1.5m12 0h1.5m6 0h1.5m1.5 0h1.5m4.5 0h1.5h1.5m3 0h1.5m6 0h1.5h1.5m1.5 0h1.5m7.5 0h1.5h1.5h1.5M0 3h1.5m1.5 0h1.5m10.5 0h1.5m1.5 0h1.5m6 0h1.5m4.5 0h1.5m1.5 0h1.5m7.5 0h1.5m12 0h1.5m7.5 0h1.5m1.5 0h1.5h1.5m1.5 0h1.5h1.5m6 0h1.5m3 0h1.5m4.5 0h1.5h1.5m3 0h1.5m1.5 0h1.5m7.5 0h1.5m9 0h1.5h1.5m6 0h1.5h1.5m1.5 0h1.5m1.5 0h1.5m3 0h1.5m19.5 0h1.5h1.5m4.5 0h1.5m3 0h1.5m16.5 0h1.5m1.5 0h1.5h1.5m27 0h1.5h1.5h1.5M3 5h1.5m4.5 0h1.5h1.5h1.5h1.5m6 0h1.5h1.5m1.5 0h1.5h1.5m3 0h1.5h1.5h1.5m3 0h1.5m1.5 0h1.5m4.5 0h1.5m1.5 0h1.5m3 0h1.5m1.5 0h1.5h1.5h1.5m1.5 0h1.5m1.5 0h1.5m1.5 0h1.5m10.5 0h1.5m6 0h1.5m3 0h1.5m1.5 0h1.5m12 0h1.5m1.5 0h1.5m3 0h1.5m1.5 0h1.5m10.5 0h1.5h1.5m15 0h1.5m4.5 0h1.5m3 0h1.5h1.5m3 0h1.5m28.5 0h1.5m16.5 0h1.5m1.5 0h1.5m4.5 0h1.5h1.5h1.5m4.5 0h1.5M4.5 7h1.5m9 0h1.5h1.5h1.5h1.5m1.5 0h1.5m4.5 0h1.5m6 0h1.5h1.5m7.5 0h1.5m9 0h1.5h1.5m3 0h1.5h1.5h1.5m4.5 0h1.5m3 0h1.5h1.5m4.5 0h1.5m6 0h1.5m1.5 0h1.5m1.5 0h1.5h1.5m1.5 0h1.5m3 0h1.5m1.5 0h1.5h1.5h1.5m3 0h1.5m3 0h1.5h1.5m1.5 0h1.5m4.5 0h1.5m1.5 0h1.5m19.5 0h1.5m1.5 0h1.5m13.5 0h1.5m3 0h1.5m1.5 0h1.5m7.5 0h1.5m12 0h1.5m3 0h1.5m1.5 0h1.5m4.5 0h1.5h1.5h1.5m3 0h1.5M9 9h1.5m3 0h1.5m6 0h1.5m10.5 0h1.5m22.5 0h1.5m9 0h1.5m3 0h1.5m3 0h1.5m12 0h1.5m1.5 0h1.5m3 0h1.5m16.5 0h1.5m1.5 0h1.5m3 0h1.5m9 0h1.5m13.5 0h1.5m1.5 0h1.5m13.5 0h1.5m3 0h1.5m9 0h1.5m3 0h1.5m13.5 0h1.5m3 0h1.5m9 0h1.5h1.5M6 11h1.5m4.5 0h1.5m3 0h1.5m7.5 0h1.5m6 0h1.5m6 0h1.5m1.5 0h1.5m6 0h1.5h1.5m9 0h1.5m3 0h1.5h1.5m3 0h1.5m6 0h1.5m6 0h1.5m1.5 0h1.5h1.5m12 0h1.5m3 0h1.5m4.5 0h1.5h1.5m13.5 0h1.5m1.5 0h1.5m54 0h1.5m25.5 0h1.5m12 0h1.5h1.5" stroke="#8c8412" stroke-width="2" fill="none"/><path d="M28.5 1h1.5m13.5 0h1.5m49.5 0h1.5m6 0h1.5m18 0h1.5m9 0h1.5m42 0h1.5m22.5 0h1.5m30 0h1.5M1.5 3h1.5m3 0h1.5h1.5m33 0h1.5m3 0h1.5h1.5m6 0h1.5m1.5 0h1.5h1.5h1.5m18 0h1.5m21 0h1.5m7.5 0h1.5m19.5 0h1.5m22.5 0h1.5m24 0h1.5m21 0h1.5m25.5 0h1.5M52.5 5h1.5m9 0h1.5m15 0h1.5m57 0h1.5h1.5m25.5 0h1.5m64.5 0h1.5M24 7h1.5h1.5m28.5 0h1.5m25.5 0h1.5m9 0h1.5m6 0h1.5m37.5 0h1.5m12 0h1.5m21 0h1.5m7.5 0h1.5m37.5 0h1.5m7.5 0h1.5M12 9h1.5m46.5 0h1.5m51 0h1.5m45 0h1.5m69 0h1.5M7.5 11h1.5m13.5 0h1.5m15 0h1.5m24 0h1.5m39 0h1.5m7.5 0h1.5m12 0h1.5m97.5 0h1.5" stroke="#7a1686" stroke-width="2" fill="none"/></pattern><pattern id="yE1" width="208" height="58" patternUnits="userSpaceOnUse" x="0" y="1228.6"><path d="M193.5 1h1.5M96 3h1.5m97.5 0h1.5M45 5h1.5m19.5 0h1.5M63 7h1.5m27 0h1.5M126 9h1.5m1.5 0h1.5M118.5 11h1.5M24 15h1.5m70.5 0h1.5m49.5 0h1.5M40.5 17h1.5m34.5 0h1.5m52.5 0h1.5m24 0h1.5M13.5 19h1.5m100.5 0h1.5M43.5 21h1.5m7.5 0h1.5m30 0h1.5M58.5 23h1.5m70.5 0h1.5M148.5 27h1.5m48 0h1.5M45 29h1.5m25.5 0h1.5M40.5 31h1.5m87 0h1.5m9 0h1.5M39 33h1.5m67.5 0h1.5m36 0h1.5M43.5 35h1.5m157.5 0h1.5M10.5 37h1.5m45 0h1.5m64.5 0h1.5m19.5 0h1.5M37.5 39h1.5m78 0h1.5m16.5 0h1.5M51 41h1.5m4.5 0h1.5m4.5 0h1.5m58.5 0h1.5m6 0h1.5h1.5m21 0h1.5m13.5 0h1.5m9 0h1.5m3 0h1.5M84 43h1.5m63 0h1.5m6 0h1.5m40.5 0h1.5M7.5 45h1.5m30 0h1.5m24 0h1.5h1.5m61.5 0h1.5m22.5 0h1.5M42 47h1.5M1.5 49h1.5m34.5 0h1.5h1.5m18 0h1.5m36 0h1.5M75 51h1.5m91.5 0h1.5M37.5 53h1.5m4.5 0h1.5m28.5 0h1.5m28.5 0h1.5m31.5 0h1.5m58.5 0h1.5m4.5 0h1.5M16.5 55h1.5m88.5 0h1.5m96 0h1.5M55.5 57h1.5m4.5 0h1.5m36 0h1.5m58.5 0h1.5" stroke="#e9da30" stroke-width="2" fill="none"/><path d="M6 1h1.5m30 0h1.5h1.5m34.5 0h1.5m9 0h1.5m19.5 0h1.5m93 0h1.5M55.5 3h1.5m16.5 0h1.5h1.5m9 0h1.5m22.5 0h1.5m12 0h1.5m21 0h1.5m3 0h1.5m22.5 0h1.5m3 0h1.5m12 0h1.5m9 0h1.5M3 5h1.5h1.5m126 0h1.5m12 0h1.5h1.5M138 7h1.5m4.5 0h1.5m7.5 0h1.5m28.5 0h1.5M9 9h1.5m63 0h1.5m3 0h1.5m36 0h1.5m6 0h1.5m10.5 0h1.5m36 0h1.5m16.5 0h1.5M166.5 11h1.5m19.5 0h1.5m12 0h1.5M4.5 13h1.5m9 0h1.5h1.5m39 0h1.5m3 0h1.5m22.5 0h1.5m4.5 0h1.5m55.5 0h1.5m10.5 0h1.5m22.5 0h1.5M61.5 15h1.5m49.5 0h1.5m49.5 0h1.5m27 0h1.5M63 17h1.5m63 0h1.5m9 0h1.5m4.5 0h1.5h1.5m15 0h1.5h1.5M151.5 19h1.5m6 0h1.5m10.5 0h1.5M88.5 21h1.5m43.5 0h1.5m9 0h1.5m7.5 0h1.5m1.5 0h1.5m7.5 0h1.5M25.5 23h1.5m7.5 0h1.5m96 0h1.5m19.5 0h1.5m4.5 0h1.5m9 0h1.5M36 25h1.5m153 0h1.5M37.5 27h1.5m78 0h1.5m10.5 0h1.5m19.5 0h1.5m10.5 0h1.5m37.5 0h1.5M36 29h1.5m10.5 0h1.5m4.5 0h1.5m31.5 0h1.5m9 0h1.5m19.5 0h1.5m45 0h1.5h1.5M51 31h1.5m45 0h1.5m66 0h1.5m13.5 0h1.5M10.5 33h1.5m69 0h1.5m69 0h1.5m18 0h1.5m22.5 0h1.5M28.5 35h1.5h1.5m96 0h1.5m36 0h1.5M40.5 37h1.5m40.5 0h1.5m1.5 0h1.5m90 0h1.5M16.5 39h1.5m12 0h1.5m66 0h1.5m25.5 0h1.5m33 0h1.5m1.5 0h1.5m7.5 0h1.5m19.5 0h1.5M42 41h1.5m22.5 0h1.5h1.5m6 0h1.5m64.5 0h1.5m16.5 0h1.5h1.5m13.5 0h1.5M48 43h1.5m42 0h1.5m18 0h1.5m18 0h1.5m25.5 0h1.5m1.5 0h1.5m25.5 0h1.5M22.5 45h1.5m34.5 0h1.5m25.5 0h1.5m33 0h1.5m1.5 0h1.5m9 0h1.5m31.5 0h1.5m19.5 0h1.5M30 47h1.5m1.5 0h1.5m15 0h1.5m60 0h1.5m87 0h1.5M31.5 49h1.5m19.5 0h1.5m3 0h1.5m18 0h1.5m7.5 0h1.5m16.5 0h1.5m54 0h1.5M30 51h1.5m55.5 0h1.5m24 0h1.5m69 0h1.5M28.5 53h1.5m25.5 0h1.5m25.5 0h1.5m7.5 0h1.5m7.5 0h1.5m61.5 0h1.5m4.5 0h1.5M52.5 55h1.5h1.5m67.5 0h1.5m7.5 0h1.5m19.5 0h1.5h1.5m45 0h1.5h1.5M72 57h1.5m7.5 0h1.5m1.5 0h1.5m30 0h1.5m25.5 0h1.5m9 0h1.5h1.5m21 0h1.5m24 0h1.5" stroke="#b7a23a" stroke-width="2" fill="none"/><path d="M48 1h1.5m21 0h1.5m111 0h1.5M24 3h1.5m34.5 0h1.5m109.5 0h1.5m24 0h1.5M12 5h1.5m102 0h1.5M34.5 9h1.5m72 0h1.5m9 0h1.5m49.5 0h1.5h1.5M61.5 11h1.5m117 0h1.5m12 0h1.5M64.5 13h1.5m9 0h1.5m54 0h1.5M33 17h1.5m117 0h1.5M129 19h1.5M94.5 21h1.5m9 0h1.5m39 0h1.5M69 23h1.5m4.5 0h1.5m85.5 0h1.5M127.5 25h1.5M36 27h1.5M0 29h1.5m28.5 0h1.5h1.5m7.5 0h1.5m7.5 0h1.5m24 0h1.5m34.5 0h1.5M19.5 31h1.5m126 0h1.5m10.5 0h1.5M36 33h1.5m51 0h1.5m4.5 0h1.5M187.5 35h1.5m3 0h1.5M58.5 37h1.5m12 0h1.5m15 0h1.5m61.5 0h1.5m6 0h1.5m6 0h1.5M61.5 39h1.5m45 0h1.5m58.5 0h1.5m9 0h1.5m15 0h1.5M37.5 41h1.5m37.5 0h1.5m75 0h1.5m39 0h1.5M73.5 43h1.5m60 0h1.5m25.5 0h1.5M118.5 45h1.5m27 0h1.5m16.5 0h1.5m10.5 0h1.5M0 49h1.5m40.5 0h1.5m16.5 0h1.5m46.5 0h1.5m18 0h1.5m52.5 0h1.5M0 51h1.5m136.5 0h1.5m27 0h1.5M36 53h1.5m141 0h1.5m12 0h1.5M118.5 55h1.5m7.5 0h1.5m34.5 0h1.5M15 57h1.5m72 0h1.5m19.5 0h1.5m46.5 0h1.5m16.5 0h1.5m6 0h1.5m7.5 0h1.5m3 0h1.5" stroke="#d8bc7c" stroke-width="2" fill="none"/><path d="M43.5 1h1.5m22.5 0h1.5m28.5 0h1.5m75 0h1.5M4.5 3h1.5m10.5 0h1.5m9 0h1.5m52.5 0h1.5m66 0h1.5M76.5 5h1.5M64.5 7h1.5M18 9h1.5m49.5 0h1.5M27 11h1.5m12 0h1.5M69 13h1.5m24 0h1.5m48 0h1.5m24 0h1.5m28.5 0h1.5M135 15h1.5h1.5M150 17h1.5M130.5 21h1.5m58.5 0h1.5M54 23h1.5m102 0h1.5m13.5 0h1.5M48 25h1.5m46.5 0h1.5m90 0h1.5M30 27h1.5m24 0h1.5m16.5 0h1.5m66 0h1.5m34.5 0h1.5m4.5 0h1.5M21 29h1.5m15 0h1.5m12 0h1.5m46.5 0h1.5m49.5 0h1.5M94.5 31h1.5m102 0h1.5M102 33h1.5m18 0h1.5m60 0h1.5M114 35h1.5M4.5 37h1.5m81 0h1.5M189 39h1.5M27 41h1.5m60 0h1.5m91.5 0h1.5M61.5 43h1.5m88.5 0h1.5m22.5 0h1.5M114 45h1.5m1.5 0h1.5m21 0h1.5M55.5 47h1.5m76.5 0h1.5m70.5 0h1.5M81 49h1.5h1.5m27 0h1.5m6 0h1.5m12 0h1.5h1.5m49.5 0h1.5M184.5 51h1.5m10.5 0h1.5M19.5 53h1.5h1.5h1.5m22.5 0h1.5m91.5 0h1.5m10.5 0h1.5M13.5 55h1.5m36 0h1.5m25.5 0h1.5m114 0h1.5M9 57h1.5m97.5 0h1.5m10.5 0h1.5m45 0h1.5m12 0h1.5" stroke="#857522" stroke-width="2" fill="none"/></pattern><pattern id="yE2" width="176" height="54" patternUnits="userSpaceOnUse" x="0" y="1224.6"><path d="M66 1h1.5m18 0h1.5m63 0h1.5m3 0h1.5M4.5 3h1.5m6 0h1.5m13.5 0h1.5m24 0h1.5m7.5 0h1.5m45 0h1.5m15 0h1.5M9 5h1.5m108 0h1.5m24 0h1.5m12 0h1.5h1.5m12 0h1.5M78 7h1.5m16.5 0h1.5m3 0h1.5m6 0h1.5m1.5 0h1.5m16.5 0h1.5m7.5 0h1.5m24 0h1.5h1.5M16.5 9h1.5m12 0h1.5m75 0h1.5M31.5 11h1.5m18 0h1.5m4.5 0h1.5m69 0h1.5m12 0h1.5M36 13h1.5m9 0h1.5m3 0h1.5m6 0h1.5h1.5m1.5 0h1.5m3 0h1.5m27 0h1.5m28.5 0h1.5m3 0h1.5m7.5 0h1.5m13.5 0h1.5M18 15h1.5m40.5 0h1.5m45 0h1.5m22.5 0h1.5m30 0h1.5M12 17h1.5m48 0h1.5m69 0h1.5m19.5 0h1.5M27 19h1.5m15 0h1.5m67.5 0h1.5m18 0h1.5m37.5 0h1.5M36 21h1.5m36 0h1.5m21 0h1.5M15 23h1.5m51 0h1.5m10.5 0h1.5M16.5 25h1.5m18 0h1.5m12 0h1.5m12 0h1.5m28.5 0h1.5m7.5 0h1.5m34.5 0h1.5m4.5 0h1.5m19.5 0h1.5h1.5M151.5 27h1.5M12 29h1.5m27 0h1.5m10.5 0h1.5m4.5 0h1.5m61.5 0h1.5M114 31h1.5m22.5 0h1.5m18 0h1.5M7.5 33h1.5m18 0h1.5h1.5m12 0h1.5m10.5 0h1.5m33 0h1.5h1.5m70.5 0h1.5M55.5 35h1.5m52.5 0h1.5m1.5 0h1.5m30 0h1.5m18 0h1.5M18 37h1.5m30 0h1.5m13.5 0h1.5m28.5 0h1.5m15 0h1.5m3 0h1.5m7.5 0h1.5m6 0h1.5m13.5 0h1.5m13.5 0h1.5M3 39h1.5m9 0h1.5m69 0h1.5m21 0h1.5m48 0h1.5M3 41h1.5m42 0h1.5M13.5 43h1.5m16.5 0h1.5m15 0h1.5m67.5 0h1.5m51 0h1.5M63 45h1.5m81 0h1.5h1.5M9 47h1.5m117 0h1.5m36 0h1.5M93 49h1.5m61.5 0h1.5m10.5 0h1.5M13.5 51h1.5m3 0h1.5m43.5 0h1.5m19.5 0h1.5m54 0h1.5m15 0h1.5m16.5 0h1.5M18 53h1.5m25.5 0h1.5m49.5 0h1.5m36 0h1.5m1.5 0h1.5m13.5 0h1.5" stroke="#e9da30" stroke-width="2" fill="none"/><path d="M4.5 1h1.5m4.5 0h1.5m15 0h1.5m9 0h1.5m3 0h1.5m6 0h1.5m10.5 0h1.5m10.5 0h1.5m21 0h1.5m4.5 0h1.5m16.5 0h1.5h1.5h1.5m12 0h1.5m6 0h1.5M0 3h1.5m27 0h1.5m12 0h1.5m66 0h1.5m22.5 0h1.5m19.5 0h1.5m4.5 0h1.5m9 0h1.5M22.5 5h1.5m3 0h1.5m10.5 0h1.5m3 0h1.5m34.5 0h1.5m4.5 0h1.5m3 0h1.5m15 0h1.5m13.5 0h1.5m3 0h1.5m1.5 0h1.5m3 0h1.5h1.5h1.5m7.5 0h1.5M18 7h1.5m78 0h1.5m10.5 0h1.5m36 0h1.5M58.5 9h1.5m66 0h1.5M1.5 11h1.5m6 0h1.5m3 0h1.5m10.5 0h1.5m36 0h1.5h1.5m4.5 0h1.5m7.5 0h1.5m1.5 0h1.5m36 0h1.5m3 0h1.5m30 0h1.5m9 0h1.5M9 13h1.5m7.5 0h1.5h1.5m3 0h1.5m40.5 0h1.5m10.5 0h1.5m9 0h1.5m9 0h1.5m16.5 0h1.5h1.5m3 0h1.5M9 15h1.5m22.5 0h1.5m6 0h1.5m1.5 0h1.5m1.5 0h1.5m3 0h1.5m19.5 0h1.5m63 0h1.5M25.5 17h1.5m42 0h1.5m1.5 0h1.5m4.5 0h1.5m33 0h1.5m12 0h1.5m6 0h1.5m10.5 0h1.5m13.5 0h1.5m1.5 0h1.5m6 0h1.5m1.5 0h1.5M6 19h1.5m4.5 0h1.5m46.5 0h1.5m78 0h1.5m18 0h1.5M121.5 21h1.5m27 0h1.5M12 23h1.5m36 0h1.5m30 0h1.5m16.5 0h1.5m7.5 0h1.5m13.5 0h1.5m1.5 0h1.5m3 0h1.5m10.5 0h1.5m3 0h1.5m12 0h1.5M4.5 25h1.5m12 0h1.5m18 0h1.5h1.5m10.5 0h1.5m28.5 0h1.5m1.5 0h1.5h1.5m3 0h1.5m4.5 0h1.5m15 0h1.5m4.5 0h1.5m25.5 0h1.5m7.5 0h1.5M1.5 27h1.5m15 0h1.5m18 0h1.5m81 0h1.5m4.5 0h1.5m37.5 0h1.5M1.5 29h1.5m34.5 0h1.5m12 0h1.5m42 0h1.5m9 0h1.5m24 0h1.5m10.5 0h1.5m22.5 0h1.5M3 31h1.5m6 0h1.5m4.5 0h1.5m18 0h1.5m61.5 0h1.5m19.5 0h1.5m1.5 0h1.5m15 0h1.5m1.5 0h1.5M9 33h1.5m4.5 0h1.5m9 0h1.5m19.5 0h1.5h1.5m42 0h1.5m31.5 0h1.5m4.5 0h1.5m13.5 0h1.5h1.5M9 35h1.5m7.5 0h1.5m12 0h1.5m1.5 0h1.5m15 0h1.5m12 0h1.5h1.5m21 0h1.5m33 0h1.5M0 37h1.5m7.5 0h1.5m1.5 0h1.5m15 0h1.5m3 0h1.5m7.5 0h1.5m36 0h1.5h1.5m15 0h1.5m3 0h1.5m6 0h1.5m12 0h1.5m9 0h1.5m4.5 0h1.5m3 0h1.5m25.5 0h1.5M4.5 39h1.5m3 0h1.5h1.5h1.5m12 0h1.5m4.5 0h1.5m25.5 0h1.5m19.5 0h1.5h1.5m9 0h1.5m12 0h1.5m13.5 0h1.5h1.5m15 0h1.5m15 0h1.5m9 0h1.5h1.5M34.5 41h1.5m1.5 0h1.5m18 0h1.5m15 0h1.5m36 0h1.5m12 0h1.5m15 0h1.5m6 0h1.5m9 0h1.5M10.5 43h1.5m75 0h1.5m18 0h1.5M3 45h1.5m43.5 0h1.5m16.5 0h1.5m10.5 0h1.5m78 0h1.5M64.5 47h1.5h1.5m36 0h1.5m3 0h1.5m12 0h1.5m1.5 0h1.5m15 0h1.5M3 49h1.5m22.5 0h1.5m1.5 0h1.5m16.5 0h1.5m27 0h1.5m21 0h1.5m30 0h1.5h1.5m30 0h1.5h1.5M9 51h1.5m60 0h1.5m9 0h1.5m39 0h1.5M12 53h1.5m27 0h1.5m4.5 0h1.5h1.5m30 0h1.5m13.5 0h1.5m45 0h1.5m13.5 0h1.5h1.5m10.5 0h1.5" stroke="#b7a23a" stroke-width="2" fill="none"/><path d="M39 1h1.5m27 0h1.5m57 0h1.5m30 0h1.5m7.5 0h1.5M34.5 3h1.5m9 0h1.5m1.5 0h1.5m24 0h1.5m12 0h1.5m25.5 0h1.5m31.5 0h1.5M30 5h1.5m4.5 0h1.5m90 0h1.5m3 0h1.5m30 0h1.5m1.5 0h1.5M4.5 7h1.5m1.5 0h1.5m49.5 0h1.5m7.5 0h1.5m67.5 0h1.5m4.5 0h1.5m10.5 0h1.5m6 0h1.5M18 9h1.5m3 0h1.5m22.5 0h1.5m114 0h1.5m1.5 0h1.5h1.5M12 11h1.5m27 0h1.5m6 0h1.5m16.5 0h1.5m30 0h1.5m3 0h1.5M28.5 13h1.5m15 0h1.5m3 0h1.5m30 0h1.5m25.5 0h1.5h1.5m30 0h1.5m10.5 0h1.5m3 0h1.5m15 0h1.5M6 15h1.5h1.5m40.5 0h1.5M64.5 17h1.5m84 0h1.5M18 19h1.5m12 0h1.5m6 0h1.5m10.5 0h1.5m25.5 0h1.5m4.5 0h1.5m16.5 0h1.5m6 0h1.5m19.5 0h1.5m21 0h1.5M60 23h1.5m3 0h1.5m4.5 0h1.5m34.5 0h1.5m6 0h1.5m19.5 0h1.5m1.5 0h1.5m6 0h1.5m10.5 0h1.5M34.5 25h1.5m10.5 0h1.5m16.5 0h1.5m66 0h1.5m25.5 0h1.5m10.5 0h1.5M63 27h1.5m78 0h1.5h1.5M6 29h1.5m109.5 0h1.5m25.5 0h1.5M25.5 31h1.5m57 0h1.5m22.5 0h1.5m21 0h1.5m12 0h1.5m1.5 0h1.5m6 0h1.5M10.5 33h1.5m4.5 0h1.5m43.5 0h1.5m18 0h1.5m33 0h1.5m19.5 0h1.5m36 0h1.5M24 35h1.5m12 0h1.5m6 0h1.5m84 0h1.5m7.5 0h1.5m13.5 0h1.5m15 0h1.5m1.5 0h1.5M37.5 37h1.5m36 0h1.5m49.5 0h1.5M1.5 39h1.5m4.5 0h1.5m34.5 0h1.5m19.5 0h1.5m58.5 0h1.5m7.5 0h1.5m6 0h1.5m3 0h1.5M10.5 41h1.5m58.5 0h1.5m31.5 0h1.5M79.5 43h1.5m48 0h1.5m18 0h1.5M46.5 45h1.5m3 0h1.5m3 0h1.5m51 0h1.5m15 0h1.5m6 0h1.5m10.5 0h1.5m18 0h1.5M16.5 47h1.5m25.5 0h1.5m13.5 0h1.5m24 0h1.5m10.5 0h1.5m69 0h1.5m1.5 0h1.5M61.5 49h1.5m45 0h1.5M27 51h1.5m69 0h1.5m10.5 0h1.5m1.5 0h1.5m13.5 0h1.5M3 53h1.5h1.5m21 0h1.5m7.5 0h1.5m25.5 0h1.5m51 0h1.5m18 0h1.5m18 0h1.5m9 0h1.5" stroke="#d8bc7c" stroke-width="2" fill="none"/><path d="M12 1h1.5m15 0h1.5m4.5 0h1.5m42 0h1.5m27 0h1.5m4.5 0h1.5m34.5 0h1.5M21 3h1.5m57 0h1.5m18 0h1.5m1.5 0h1.5m18 0h1.5h1.5m13.5 0h1.5M40.5 5h1.5m127.5 0h1.5M12 7h1.5m10.5 0h1.5m22.5 0h1.5m6 0h1.5m9 0h1.5m52.5 0h1.5m19.5 0h1.5M36 9h1.5m66 0h1.5m6 0h1.5m3 0h1.5M61.5 11h1.5m15 0h1.5m52.5 0h1.5m1.5 0h1.5m7.5 0h1.5m22.5 0h1.5m4.5 0h1.5M3 13h1.5m3 0h1.5m16.5 0h1.5m28.5 0h1.5h1.5m70.5 0h1.5m39 0h1.5M1.5 15h1.5m55.5 0h1.5m19.5 0h1.5m60 0h1.5h1.5m19.5 0h1.5M73.5 17h1.5m43.5 0h1.5m4.5 0h1.5m13.5 0h1.5m13.5 0h1.5m12 0h1.5M4.5 19h1.5m39 0h1.5m46.5 0h1.5m49.5 0h1.5m1.5 0h1.5M18 21h1.5m123 0h1.5M4.5 23h1.5m3 0h1.5m16.5 0h1.5m9 0h1.5m27 0h1.5m19.5 0h1.5m13.5 0h1.5m52.5 0h1.5m10.5 0h1.5h1.5M6 25h1.5m4.5 0h1.5m15 0h1.5m28.5 0h1.5m48 0h1.5m4.5 0h1.5m1.5 0h1.5m7.5 0h1.5M19.5 27h1.5m63 0h1.5m1.5 0h1.5m19.5 0h1.5M64.5 29h1.5M66 31h1.5m22.5 0h1.5m27 0h1.5m12 0h1.5m3 0h1.5m27 0h1.5M30 33h1.5m34.5 0h1.5m39 0h1.5m6 0h1.5m16.5 0h1.5h1.5m31.5 0h1.5m1.5 0h1.5M40.5 35h1.5m42 0h1.5m72 0h1.5M13.5 37h1.5m46.5 0h1.5m19.5 0h1.5m1.5 0h1.5m9 0h1.5m33 0h1.5m6 0h1.5m12 0h1.5m13.5 0h1.5M27 39h1.5m4.5 0h1.5m1.5 0h1.5m12 0h1.5h1.5m30 0h1.5m30 0h1.5m27 0h1.5h1.5m28.5 0h1.5M15 41h1.5m33 0h1.5m42 0h1.5m70.5 0h1.5m7.5 0h1.5M4.5 43h1.5h1.5m21 0h1.5m52.5 0h1.5M21 45h1.5m6 0h1.5m85.5 0h1.5m3 0h1.5m21 0h1.5M18 47h1.5m9 0h1.5m15 0h1.5m16.5 0h1.5M19.5 49h1.5m88.5 0h1.5m60 0h1.5M54 51h1.5m4.5 0h1.5m46.5 0h1.5M82.5 53h1.5m19.5 0h1.5m18 0h1.5m1.5 0h1.5m22.5 0h1.5m22.5 0h1.5" stroke="#857522" stroke-width="2" fill="none"/></pattern><pattern id="yE3" width="224" height="70" patternUnits="userSpaceOnUse" x="0" y="1221.6"><path d="M0 1h1.6m3.2 0h1.6m38.4 0h1.6m22.4 0h1.6m20.8 0h1.6m3.2 0h1.6m49.6 0h1.6h1.6m19.2 0h1.6m28.8 0h1.6m1.6 0h1.6m17.6 0h1.6M1.6 3h1.6m43.2 0h1.6m78.4 0h1.6m3.2 0h1.6m81.6 0h1.6M0 5h1.6m43.2 0h1.6m84.8 0h1.6m8 0h1.6h1.6m14.4 0h1.6m46.4 0h1.6m4.8 0h1.6M0 7h1.6m48 0h1.6m20.8 0h1.6m9.6 0h1.6m9.6 0h1.6h1.6m40 0h1.6m11.2 0h1.6m52.8 0h1.6m6.4 0h1.6M4.8 9h1.6m1.6 0h1.6m28.8 0h1.6m4.8 0h1.6m4.8 0h1.6m14.4 0h1.6m1.6 0h1.6m24 0h1.6m8 0h1.6m19.2 0h1.6h1.6m4.8 0h1.6m6.4 0h1.6m32 0h1.6m20.8 0h1.6m3.2 0h1.6M0 11h1.6m32 0h1.6m41.6 0h1.6m19.2 0h1.6m9.6 0h1.6m17.6 0h1.6m75.2 0h1.6M6.4 13h1.6m38.4 0h1.6m25.6 0h1.6m75.2 0h1.6m25.6 0h1.6m38.4 0h1.6m3.2 0h1.6M8 15h1.6m36.8 0h1.6m1.6 0h1.6m30.4 0h1.6m6.4 0h1.6m8 0h1.6m44.8 0h1.6m4.8 0h1.6m1.6 0h1.6m16 0h1.6m27.2 0h1.6m1.6 0h1.6M0 17h1.6m12.8 0h1.6m11.2 0h1.6m36.8 0h1.6m8 0h1.6m1.6 0h1.6m19.2 0h1.6m24 0h1.6m14.4 0h1.6m11.2 0h1.6m6.4 0h1.6m12.8 0h1.6m3.2 0h1.6m1.6 0h1.6m3.2 0h1.6m1.6 0h1.6M14.4 19h1.6m8 0h1.6m14.4 0h1.6m6.4 0h1.6h1.6m20.8 0h1.6m11.2 0h1.6m9.6 0h1.6m67.2 0h1.6m14.4 0h1.6m16 0h1.6m11.2 0h1.6M0 21h1.6m70.4 0h1.6m54.4 0h1.6m12.8 0h1.6m3.2 0h1.6m40 0h1.6m9.6 0h1.6m17.6 0h1.6M24 23h1.6h1.6m4.8 0h1.6m1.6 0h1.6m8 0h1.6m4.8 0h1.6m4.8 0h1.6m36.8 0h1.6m60.8 0h1.6m1.6 0h1.6m20.8 0h1.6M3.2 25h1.6m16 0h1.6m3.2 0h1.6m14.4 0h1.6m24 0h1.6m49.6 0h1.6m19.2 0h1.6m17.6 0h1.6h1.6m4.8 0h1.6h1.6M28.8 27h1.6m1.6 0h1.6m6.4 0h1.6m99.2 0h1.6m1.6 0h1.6m12.8 0h1.6h1.6m27.2 0h1.6M22.4 29h1.6m11.2 0h1.6m12.8 0h1.6h1.6m67.2 0h1.6m6.4 0h1.6m3.2 0h1.6M20.8 31h1.6m36.8 0h1.6m33.6 0h1.6m30.4 0h1.6m57.6 0h1.6M27.2 33h1.6m9.6 0h1.6m8 0h1.6m25.6 0h1.6m44.8 0h1.6m17.6 0h1.6m44.8 0h1.6m12.8 0h1.6M14.4 35h1.6m28.8 0h1.6m27.2 0h1.6m46.4 0h1.6m16 0h1.6m36.8 0h1.6m24 0h1.6m8 0h1.6h1.6M12.8 37h1.6m9.6 0h1.6m48 0h1.6m4.8 0h1.6m6.4 0h1.6m36.8 0h1.6m38.4 0h1.6m6.4 0h1.6m38.4 0h1.6M12.8 39h1.6m6.4 0h1.6m44.8 0h1.6m24 0h1.6m25.6 0h1.6m8 0h1.6m17.6 0h1.6m49.6 0h1.6m4.8 0h1.6M22.4 41h1.6m1.6 0h1.6m49.6 0h1.6m28.8 0h1.6m32 0h1.6m36.8 0h1.6m6.4 0h1.6m9.6 0h1.6M27.2 43h1.6m59.2 0h1.6m4.8 0h1.6h1.6m56 0h1.6m41.6 0h1.6m6.4 0h1.6m3.2 0h1.6M4.8 45h1.6m16 0h1.6h1.6h1.6m20.8 0h1.6m19.2 0h1.6m3.2 0h1.6m19.2 0h1.6m46.4 0h1.6m65.6 0h1.6m1.6 0h1.6M30.4 47h1.6m11.2 0h1.6m28.8 0h1.6m22.4 0h1.6m24 0h1.6m12.8 0h1.6m6.4 0h1.6m8 0h1.6m14.4 0h1.6m8 0h1.6m20.8 0h1.6m9.6 0h1.6M28.8 49h1.6m107.2 0h1.6m1.6 0h1.6m4.8 0h1.6m14.4 0h1.6m30.4 0h1.6m4.8 0h1.6M9.6 51h1.6m11.2 0h1.6m44.8 0h1.6m28.8 0h1.6m1.6 0h1.6m64 0h1.6m28.8 0h1.6m6.4 0h1.6m4.8 0h1.6M3.2 53h1.6m11.2 0h1.6m1.6 0h1.6h1.6m16 0h1.6m22.4 0h1.6m12.8 0h1.6h1.6h1.6m9.6 0h1.6m22.4 0h1.6m14.4 0h1.6m9.6 0h1.6m9.6 0h1.6m9.6 0h1.6m46.4 0h1.6m1.6 0h1.6m3.2 0h1.6M8 55h1.6h1.6m32 0h1.6m57.6 0h1.6m20.8 0h1.6m41.6 0h1.6m32 0h1.6M20.8 57h1.6m51.2 0h1.6m9.6 0h1.6m14.4 0h1.6m22.4 0h1.6m72 0h1.6M12.8 59h1.6m1.6 0h1.6m11.2 0h1.6m1.6 0h1.6m8 0h1.6m40 0h1.6m20.8 0h1.6m19.2 0h1.6m6.4 0h1.6m33.6 0h1.6h1.6m12.8 0h1.6m1.6 0h1.6m6.4 0h1.6h1.6m16 0h1.6M1.6 61h1.6m19.2 0h1.6m3.2 0h1.6m1.6 0h1.6m16 0h1.6m22.4 0h1.6m16 0h1.6m6.4 0h1.6h1.6m9.6 0h1.6m28.8 0h1.6m38.4 0h1.6m9.6 0h1.6m1.6 0h1.6m1.6 0h1.6M11.2 63h1.6m16 0h1.6m28.8 0h1.6m35.2 0h1.6m3.2 0h1.6m44.8 0h1.6m16 0h1.6m16 0h1.6m14.4 0h1.6m12.8 0h1.6M17.6 65h1.6m3.2 0h1.6m4.8 0h1.6m11.2 0h1.6m4.8 0h1.6h1.6m52.8 0h1.6m16 0h1.6m3.2 0h1.6m11.2 0h1.6M17.6 67h1.6m30.4 0h1.6m1.6 0h1.6m28.8 0h1.6m3.2 0h1.6h1.6m62.4 0h1.6m28.8 0h1.6m9.6 0h1.6M3.2 69h1.6m4.8 0h1.6m62.4 0h1.6m1.6 0h1.6m8 0h1.6m36.8 0h1.6m91.2 0h1.6" stroke="#e9da30" stroke-width="2" fill="none"/><path d="M11.2 1h1.6m8 0h1.6m44.8 0h1.6m8 0h1.6m25.6 0h1.6m19.2 0h1.6h1.6m51.2 0h1.6m16 0h1.6m9.6 0h1.6m11.2 0h1.6M27.2 3h1.6m24 0h1.6m14.4 0h1.6m24 0h1.6m100.8 0h1.6m8 0h1.6h1.6m11.2 0h1.6M28.8 5h1.6m16 0h1.6m8 0h1.6m1.6 0h1.6h1.6m32 0h1.6m32 0h1.6m38.4 0h1.6m6.4 0h1.6m11.2 0h1.6M16 7h1.6h1.6m9.6 0h1.6m11.2 0h1.6h1.6m32 0h1.6m6.4 0h1.6m60.8 0h1.6h1.6m19.2 0h1.6m9.6 0h1.6m12.8 0h1.6M0 9h1.6m4.8 0h1.6m3.2 0h1.6m1.6 0h1.6h1.6m3.2 0h1.6m3.2 0h1.6m20.8 0h1.6m14.4 0h1.6m6.4 0h1.6m20.8 0h1.6m14.4 0h1.6m1.6 0h1.6m24 0h1.6m8 0h1.6m4.8 0h1.6m1.6 0h1.6m24 0h1.6m1.6 0h1.6h1.6m11.2 0h1.6m11.2 0h1.6M56 11h1.6m1.6 0h1.6m81.6 0h1.6m27.2 0h1.6m3.2 0h1.6m20.8 0h1.6m14.4 0h1.6M3.2 13h1.6m43.2 0h1.6m8 0h1.6m68.8 0h1.6m16 0h1.6m1.6 0h1.6m14.4 0h1.6m38.4 0h1.6M3.2 15h1.6m1.6 0h1.6m4.8 0h1.6m4.8 0h1.6m3.2 0h1.6m3.2 0h1.6m14.4 0h1.6m6.4 0h1.6m6.4 0h1.6h1.6m11.2 0h1.6m3.2 0h1.6m6.4 0h1.6m6.4 0h1.6h1.6m3.2 0h1.6h1.6m17.6 0h1.6m1.6 0h1.6h1.6m9.6 0h1.6m3.2 0h1.6m1.6 0h1.6m16 0h1.6m1.6 0h1.6m12.8 0h1.6m14.4 0h1.6m3.2 0h1.6m8 0h1.6m1.6 0h1.6M24 17h1.6m16 0h1.6m27.2 0h1.6m14.4 0h1.6m8 0h1.6m9.6 0h1.6m8 0h1.6m46.4 0h1.6m11.2 0h1.6m19.2 0h1.6m1.6 0h1.6m6.4 0h1.6m4.8 0h1.6M22.4 19h1.6m19.2 0h1.6h1.6m28.8 0h1.6m4.8 0h1.6m16 0h1.6m1.6 0h1.6m6.4 0h1.6m16 0h1.6m14.4 0h1.6m1.6 0h1.6m1.6 0h1.6m16 0h1.6m9.6 0h1.6m32 0h1.6M6.4 21h1.6m20.8 0h1.6m27.2 0h1.6m16 0h1.6h1.6h1.6m27.2 0h1.6m16 0h1.6m22.4 0h1.6m14.4 0h1.6m16 0h1.6m17.6 0h1.6m3.2 0h1.6M6.4 23h1.6m22.4 0h1.6m43.2 0h1.6m118.4 0h1.6m16 0h1.6M6.4 25h1.6m19.2 0h1.6m6.4 0h1.6m12.8 0h1.6m6.4 0h1.6m17.6 0h1.6m3.2 0h1.6m17.6 0h1.6m3.2 0h1.6m4.8 0h1.6m1.6 0h1.6m25.6 0h1.6m3.2 0h1.6m1.6 0h1.6m9.6 0h1.6m1.6 0h1.6m19.2 0h1.6m14.4 0h1.6m8 0h1.6m3.2 0h1.6m3.2 0h1.6M1.6 27h1.6m6.4 0h1.6m19.2 0h1.6m11.2 0h1.6m56 0h1.6m52.8 0h1.6m9.6 0h1.6m9.6 0h1.6m19.2 0h1.6M0 29h1.6m44.8 0h1.6m22.4 0h1.6h1.6h1.6m91.2 0h1.6m14.4 0h1.6M38.4 31h1.6m6.4 0h1.6m17.6 0h1.6m6.4 0h1.6h1.6m62.4 0h1.6m25.6 0h1.6h1.6m4.8 0h1.6M8 33h1.6m4.8 0h1.6m24 0h1.6m1.6 0h1.6h1.6m6.4 0h1.6m16 0h1.6m9.6 0h1.6m40 0h1.6m3.2 0h1.6m30.4 0h1.6h1.6h1.6m6.4 0h1.6m22.4 0h1.6m17.6 0h1.6m6.4 0h1.6M22.4 35h1.6m6.4 0h1.6h1.6m16 0h1.6m94.4 0h1.6m1.6 0h1.6m48 0h1.6M22.4 37h1.6m19.2 0h1.6m3.2 0h1.6m36.8 0h1.6m8 0h1.6h1.6m1.6 0h1.6m14.4 0h1.6m1.6 0h1.6m3.2 0h1.6m1.6 0h1.6m9.6 0h1.6m8 0h1.6m32 0h1.6m12.8 0h1.6M3.2 39h1.6m12.8 0h1.6m4.8 0h1.6m22.4 0h1.6m25.6 0h1.6m1.6 0h1.6m4.8 0h1.6m1.6 0h1.6m11.2 0h1.6m1.6 0h1.6m41.6 0h1.6m9.6 0h1.6m20.8 0h1.6m1.6 0h1.6m11.2 0h1.6h1.6m3.2 0h1.6M20.8 41h1.6m6.4 0h1.6m20.8 0h1.6m17.6 0h1.6m6.4 0h1.6m25.6 0h1.6m12.8 0h1.6m12.8 0h1.6m3.2 0h1.6m60.8 0h1.6M40 43h1.6m44.8 0h1.6m52.8 0h1.6m14.4 0h1.6m4.8 0h1.6m6.4 0h1.6h1.6m4.8 0h1.6m14.4 0h1.6m14.4 0h1.6M3.2 45h1.6m14.4 0h1.6m16 0h1.6m89.6 0h1.6m17.6 0h1.6m8 0h1.6m9.6 0h1.6m8 0h1.6m8 0h1.6m14.4 0h1.6M3.2 47h1.6m17.6 0h1.6m3.2 0h1.6m11.2 0h1.6m3.2 0h1.6m24 0h1.6m6.4 0h1.6h1.6m43.2 0h1.6h1.6m19.2 0h1.6m14.4 0h1.6m4.8 0h1.6m17.6 0h1.6m6.4 0h1.6h1.6h1.6m11.2 0h1.6m1.6 0h1.6M0 49h1.6m14.4 0h1.6m4.8 0h1.6m14.4 0h1.6h1.6m25.6 0h1.6m32 0h1.6m8 0h1.6m12.8 0h1.6m17.6 0h1.6m3.2 0h1.6h1.6h1.6m36.8 0h1.6m6.4 0h1.6m6.4 0h1.6M11.2 51h1.6m3.2 0h1.6m6.4 0h1.6m20.8 0h1.6h1.6m17.6 0h1.6m3.2 0h1.6m44.8 0h1.6m19.2 0h1.6h1.6m12.8 0h1.6m4.8 0h1.6m17.6 0h1.6m4.8 0h1.6M14.4 53h1.6m6.4 0h1.6m4.8 0h1.6h1.6m16 0h1.6m17.6 0h1.6h1.6m4.8 0h1.6m25.6 0h1.6m16 0h1.6m28.8 0h1.6m4.8 0h1.6m1.6 0h1.6m6.4 0h1.6m9.6 0h1.6m22.4 0h1.6h1.6M24 55h1.6m3.2 0h1.6m20.8 0h1.6m14.4 0h1.6m3.2 0h1.6m1.6 0h1.6m3.2 0h1.6m1.6 0h1.6m1.6 0h1.6m17.6 0h1.6m8 0h1.6m4.8 0h1.6m16 0h1.6h1.6m3.2 0h1.6m11.2 0h1.6m12.8 0h1.6m6.4 0h1.6m33.6 0h1.6M4.8 57h1.6m9.6 0h1.6m9.6 0h1.6m19.2 0h1.6m1.6 0h1.6m41.6 0h1.6h1.6m16 0h1.6m20.8 0h1.6m3.2 0h1.6h1.6m1.6 0h1.6h1.6m3.2 0h1.6m4.8 0h1.6m16 0h1.6m1.6 0h1.6m14.4 0h1.6m6.4 0h1.6m9.6 0h1.6M3.2 59h1.6m44.8 0h1.6m4.8 0h1.6m11.2 0h1.6m4.8 0h1.6m1.6 0h1.6m9.6 0h1.6m9.6 0h1.6m8 0h1.6m4.8 0h1.6m22.4 0h1.6h1.6m20.8 0h1.6m1.6 0h1.6m9.6 0h1.6m9.6 0h1.6m3.2 0h1.6m3.2 0h1.6m4.8 0h1.6M0 61h1.6m16 0h1.6m1.6 0h1.6m9.6 0h1.6m3.2 0h1.6m8 0h1.6m9.6 0h1.6m3.2 0h1.6m3.2 0h1.6m1.6 0h1.6m4.8 0h1.6m22.4 0h1.6m9.6 0h1.6m9.6 0h1.6h1.6m11.2 0h1.6m24 0h1.6h1.6m20.8 0h1.6m11.2 0h1.6h1.6m17.6 0h1.6M14.4 63h1.6m4.8 0h1.6m4.8 0h1.6m16 0h1.6m1.6 0h1.6m16 0h1.6m1.6 0h1.6h1.6m30.4 0h1.6h1.6m1.6 0h1.6m1.6 0h1.6h1.6m9.6 0h1.6h1.6h1.6h1.6m6.4 0h1.6m1.6 0h1.6m1.6 0h1.6m12.8 0h1.6m27.2 0h1.6m14.4 0h1.6h1.6M36.8 65h1.6m8 0h1.6m19.2 0h1.6m20.8 0h1.6m3.2 0h1.6m3.2 0h1.6h1.6m32 0h1.6m6.4 0h1.6m11.2 0h1.6m3.2 0h1.6m14.4 0h1.6m20.8 0h1.6m22.4 0h1.6M0 67h1.6m6.4 0h1.6m6.4 0h1.6m8 0h1.6m3.2 0h1.6m9.6 0h1.6h1.6m22.4 0h1.6m25.6 0h1.6m6.4 0h1.6m17.6 0h1.6m4.8 0h1.6m11.2 0h1.6m8 0h1.6h1.6m3.2 0h1.6m4.8 0h1.6m12.8 0h1.6m14.4 0h1.6m1.6 0h1.6h1.6M30.4 69h1.6m1.6 0h1.6m1.6 0h1.6m20.8 0h1.6h1.6m43.2 0h1.6m43.2 0h1.6h1.6m27.2 0h1.6m1.6 0h1.6m8 0h1.6m3.2 0h1.6m3.2 0h1.6" stroke="#b7a23a" stroke-width="2" fill="none"/><path d="M6.4 1h1.6h1.6h1.6m110.4 0h1.6m6.4 0h1.6m28.8 0h1.6m27.2 0h1.6m20.8 0h1.6h1.6M25.6 3h1.6m78.4 0h1.6m8 0h1.6m84.8 0h1.6m14.4 0h1.6M100.8 5h1.6m4.8 0h1.6m3.2 0h1.6m11.2 0h1.6m24 0h1.6m35.2 0h1.6M75.2 7h1.6m4.8 0h1.6m48 0h1.6m12.8 0h1.6m43.2 0h1.6m9.6 0h1.6m3.2 0h1.6m9.6 0h1.6M27.2 9h1.6m17.6 0h1.6m38.4 0h1.6m12.8 0h1.6m1.6 0h1.6m14.4 0h1.6m19.2 0h1.6m4.8 0h1.6m8 0h1.6m1.6 0h1.6m20.8 0h1.6M20.8 11h1.6m1.6 0h1.6m1.6 0h1.6m70.4 0h1.6m24 0h1.6m17.6 0h1.6m12.8 0h1.6m43.2 0h1.6M24 13h1.6m57.6 0h1.6m54.4 0h1.6m35.2 0h1.6m1.6 0h1.6M22.4 15h1.6m19.2 0h1.6m22.4 0h1.6m3.2 0h1.6h1.6m11.2 0h1.6m17.6 0h1.6m17.6 0h1.6m11.2 0h1.6m3.2 0h1.6m44.8 0h1.6m19.2 0h1.6m8 0h1.6M1.6 17h1.6m3.2 0h1.6m3.2 0h1.6m9.6 0h1.6m48 0h1.6m49.6 0h1.6m19.2 0h1.6m20.8 0h1.6M27.2 19h1.6m17.6 0h1.6m17.6 0h1.6m27.2 0h1.6m44.8 0h1.6m3.2 0h1.6m4.8 0h1.6m8 0h1.6h1.6m8 0h1.6m20.8 0h1.6m4.8 0h1.6m1.6 0h1.6M32 21h1.6m14.4 0h1.6m17.6 0h1.6m1.6 0h1.6m1.6 0h1.6m6.4 0h1.6m16 0h1.6m44.8 0h1.6m3.2 0h1.6m9.6 0h1.6m51.2 0h1.6M16 23h1.6m49.6 0h1.6m43.2 0h1.6m12.8 0h1.6m1.6 0h1.6m3.2 0h1.6h1.6m11.2 0h1.6m12.8 0h1.6m14.4 0h1.6m12.8 0h1.6m3.2 0h1.6M38.4 25h1.6m30.4 0h1.6m3.2 0h1.6m1.6 0h1.6m51.2 0h1.6m8 0h1.6m3.2 0h1.6m24 0h1.6m4.8 0h1.6m8 0h1.6m11.2 0h1.6m12.8 0h1.6M20.8 27h1.6m4.8 0h1.6m25.6 0h1.6m40 0h1.6m4.8 0h1.6m112 0h1.6M20.8 29h1.6m72 0h1.6m28.8 0h1.6m16 0h1.6m8 0h1.6m1.6 0h1.6m11.2 0h1.6m35.2 0h1.6M32 31h1.6m36.8 0h1.6m4.8 0h1.6m25.6 0h1.6M4.8 33h1.6m9.6 0h1.6m14.4 0h1.6m12.8 0h1.6m11.2 0h1.6m6.4 0h1.6m3.2 0h1.6h1.6m1.6 0h1.6m30.4 0h1.6m54.4 0h1.6m1.6 0h1.6m28.8 0h1.6M12.8 35h1.6m9.6 0h1.6h1.6m41.6 0h1.6m25.6 0h1.6m12.8 0h1.6m3.2 0h1.6m40 0h1.6m20.8 0h1.6m16 0h1.6m20.8 0h1.6M27.2 37h1.6m43.2 0h1.6m38.4 0h1.6h1.6m49.6 0h1.6m32 0h1.6m22.4 0h1.6M6.4 39h1.6m17.6 0h1.6m9.6 0h1.6m70.4 0h1.6m40 0h1.6m16 0h1.6m19.2 0h1.6m19.2 0h1.6M16 41h1.6m56 0h1.6m20.8 0h1.6m51.2 0h1.6m1.6 0h1.6m43.2 0h1.6M60.8 43h1.6m19.2 0h1.6m54.4 0h1.6m62.4 0h1.6m14.4 0h1.6M6.4 45h1.6m6.4 0h1.6m1.6 0h1.6m91.2 0h1.6m11.2 0h1.6m33.6 0h1.6m12.8 0h1.6m1.6 0h1.6m28.8 0h1.6M9.6 47h1.6m24 0h1.6m56 0h1.6m48 0h1.6m8 0h1.6m48 0h1.6M20.8 49h1.6m20.8 0h1.6h1.6m51.2 0h1.6m14.4 0h1.6M14.4 51h1.6m11.2 0h1.6m32 0h1.6m27.2 0h1.6m19.2 0h1.6m14.4 0h1.6m19.2 0h1.6m14.4 0h1.6m32 0h1.6m17.6 0h1.6M11.2 53h1.6m14.4 0h1.6m14.4 0h1.6m1.6 0h1.6m35.2 0h1.6m96 0h1.6m6.4 0h1.6m11.2 0h1.6m4.8 0h1.6m4.8 0h1.6M4.8 55h1.6m120 0h1.6m20.8 0h1.6m36.8 0h1.6m28.8 0h1.6M14.4 57h1.6m8 0h1.6m9.6 0h1.6m35.2 0h1.6m59.2 0h1.6m4.8 0h1.6m22.4 0h1.6m6.4 0h1.6m33.6 0h1.6m11.2 0h1.6M0 59h1.6m41.6 0h1.6h1.6h1.6m14.4 0h1.6m8 0h1.6m14.4 0h1.6m6.4 0h1.6m1.6 0h1.6m46.4 0h1.6m6.4 0h1.6h1.6m1.6 0h1.6m14.4 0h1.6m27.2 0h1.6M12.8 61h1.6h1.6h1.6m22.4 0h1.6m1.6 0h1.6m4.8 0h1.6m27.2 0h1.6m11.2 0h1.6m12.8 0h1.6m6.4 0h1.6m11.2 0h1.6m56 0h1.6m11.2 0h1.6M16 63h1.6m8 0h1.6m14.4 0h1.6m11.2 0h1.6m38.4 0h1.6m9.6 0h1.6m14.4 0h1.6m51.2 0h1.6m8 0h1.6m3.2 0h1.6m4.8 0h1.6m3.2 0h1.6m6.4 0h1.6m4.8 0h1.6h1.6m4.8 0h1.6M0 65h1.6m6.4 0h1.6m17.6 0h1.6m28.8 0h1.6m46.4 0h1.6m20.8 0h1.6m17.6 0h1.6m17.6 0h1.6h1.6m17.6 0h1.6m6.4 0h1.6M11.2 67h1.6m11.2 0h1.6m3.2 0h1.6m80 0h1.6m48 0h1.6m6.4 0h1.6m11.2 0h1.6m19.2 0h1.6M6.4 69h1.6m6.4 0h1.6m6.4 0h1.6m8 0h1.6m6.4 0h1.6m84.8 0h1.6m60.8 0h1.6" stroke="#d8bc7c" stroke-width="2" fill="none"/><path d="M73.6 1h1.6m40 0h1.6m40 0h1.6m14.4 0h1.6M24 3h1.6m65.6 0h1.6m32 0h1.6m52.8 0h1.6M41.6 5h1.6m25.6 0h1.6m12.8 0h1.6m88 0h1.6m36.8 0h1.6M67.2 7h1.6m91.2 0h1.6m3.2 0h1.6m11.2 0h1.6m35.2 0h1.6M3.2 9h1.6m4.8 0h1.6m17.6 0h1.6m6.4 0h1.6m3.2 0h1.6h1.6m4.8 0h1.6m22.4 0h1.6h1.6h1.6m3.2 0h1.6m41.6 0h1.6m35.2 0h1.6m4.8 0h1.6m1.6 0h1.6m6.4 0h1.6h1.6m11.2 0h1.6h1.6m19.2 0h1.6M43.2 11h1.6M8 13h1.6m35.2 0h1.6m22.4 0h1.6h1.6m28.8 0h1.6m92.8 0h1.6m3.2 0h1.6m14.4 0h1.6M14.4 15h1.6m11.2 0h1.6m3.2 0h1.6m80 0h1.6M46.4 17h1.6h1.6m1.6 0h1.6m20.8 0h1.6m27.2 0h1.6m22.4 0h1.6m22.4 0h1.6M9.6 19h1.6m1.6 0h1.6m3.2 0h1.6m33.6 0h1.6m1.6 0h1.6m4.8 0h1.6m3.2 0h1.6m4.8 0h1.6m30.4 0h1.6m35.2 0h1.6m12.8 0h1.6m27.2 0h1.6m9.6 0h1.6m8 0h1.6m6.4 0h1.6h1.6M46.4 21h1.6m75.2 0h1.6m62.4 0h1.6M4.8 23h1.6m36.8 0h1.6m56 0h1.6m4.8 0h1.6M24 25h1.6m20.8 0h1.6m25.6 0h1.6m123.2 0h1.6m19.2 0h1.6M48 27h1.6m28.8 0h1.6m19.2 0h1.6m22.4 0h1.6m22.4 0h1.6m56 0h1.6m12.8 0h1.6M48 29h1.6M120 31h1.6m19.2 0h1.6m16 0h1.6h1.6M56 33h1.6m81.6 0h1.6m6.4 0h1.6m20.8 0h1.6m14.4 0h1.6m1.6 0h1.6m12.8 0h1.6M46.4 35h1.6h1.6m48 0h1.6m8 0h1.6m32 0h1.6h1.6m3.2 0h1.6m9.6 0h1.6m41.6 0h1.6M33.6 37h1.6m19.2 0h1.6m97.6 0h1.6m12.8 0h1.6m46.4 0h1.6M8 39h1.6m4.8 0h1.6m123.2 0h1.6m73.6 0h1.6M17.6 41h1.6m20.8 0h1.6m4.8 0h1.6h1.6m22.4 0h1.6m54.4 0h1.6m20.8 0h1.6m4.8 0h1.6m12.8 0h1.6h1.6M3.2 43h1.6m62.4 0h1.6m51.2 0h1.6m24 0h1.6M105.6 45h1.6m32 0h1.6m11.2 0h1.6m16 0h1.6M0 47h1.6m11.2 0h1.6h1.6m1.6 0h1.6m1.6 0h1.6m27.2 0h1.6m3.2 0h1.6m4.8 0h1.6m40 0h1.6m1.6 0h1.6m20.8 0h1.6m27.2 0h1.6m25.6 0h1.6M48 49h1.6m25.6 0h1.6h1.6m8 0h1.6m6.4 0h1.6m11.2 0h1.6m30.4 0h1.6m4.8 0h1.6m52.8 0h1.6m8 0h1.6M30.4 51h1.6m105.6 0h1.6m60.8 0h1.6M17.6 53h1.6m38.4 0h1.6m65.6 0h1.6m12.8 0h1.6m51.2 0h1.6M76.8 55h1.6m41.6 0h1.6m41.6 0h1.6m17.6 0h1.6m38.4 0h1.6M28.8 57h1.6m1.6 0h1.6m33.6 0h1.6m19.2 0h1.6m3.2 0h1.6m11.2 0h1.6m60.8 0h1.6m11.2 0h1.6m4.8 0h1.6h1.6m9.6 0h1.6h1.6m17.6 0h1.6h1.6M1.6 59h1.6m27.2 0h1.6m16 0h1.6m36.8 0h1.6m16 0h1.6m12.8 0h1.6m30.4 0h1.6m49.6 0h1.6m19.2 0h1.6M28.8 61h1.6m22.4 0h1.6m19.2 0h1.6h1.6m27.2 0h1.6m14.4 0h1.6h1.6m19.2 0h1.6m3.2 0h1.6m6.4 0h1.6m11.2 0h1.6m9.6 0h1.6m8 0h1.6m3.2 0h1.6m11.2 0h1.6m8 0h1.6M56 63h1.6m16 0h1.6m3.2 0h1.6h1.6m16 0h1.6m60.8 0h1.6M16 65h1.6m27.2 0h1.6m22.4 0h1.6m3.2 0h1.6m1.6 0h1.6h1.6m43.2 0h1.6m16 0h1.6m1.6 0h1.6m3.2 0h1.6m1.6 0h1.6m11.2 0h1.6m3.2 0h1.6m25.6 0h1.6m8 0h1.6m6.4 0h1.6M76.8 67h1.6h1.6M12.8 69h1.6m14.4 0h1.6m44.8 0h1.6m38.4 0h1.6m25.6 0h1.6m51.2 0h1.6" stroke="#857522" stroke-width="2" fill="none"/><path d="M161.6 1h1.6M28.8 3h1.6m81.6 0h1.6m3.2 0h1.6m30.4 0h1.6m62.4 0h1.6M81.6 5h1.6M73.6 7h1.6m49.6 0h1.6m57.6 0h1.6M97.6 9h1.6h1.6m6.4 0h1.6m12.8 0h1.6m27.2 0h1.6m11.2 0h1.6m32 0h1.6M102.4 11h1.6m92.8 0h1.6M89.6 13h1.6m3.2 0h1.6m1.6 0h1.6m6.4 0h1.6m54.4 0h1.6M20.8 15h1.6m25.6 0h1.6m20.8 0h1.6m4.8 0h1.6m12.8 0h1.6m48 0h1.6m36.8 0h1.6m16 0h1.6M12.8 17h1.6m17.6 0h1.6m145.6 0h1.6m12.8 0h1.6m4.8 0h1.6M32 19h1.6m8 0h1.6m81.6 0h1.6h1.6m41.6 0h1.6M14.4 21h1.6m78.4 0h1.6m8 0h1.6m62.4 0h1.6M3.2 23h1.6m142.4 0h1.6m8 0h1.6M56 25h1.6m126.4 0h1.6m9.6 0h1.6M14.4 27h1.6m56 0h1.6m8 0h1.6m36.8 0h1.6m20.8 0h1.6m32 0h1.6m4.8 0h1.6M99.2 29h1.6m20.8 0h1.6m11.2 0h1.6m78.4 0h1.6M27.2 31h1.6m148.8 0h1.6m38.4 0h1.6M6.4 33h1.6m17.6 0h1.6m9.6 0h1.6m56 0h1.6m30.4 0h1.6m3.2 0h1.6m9.6 0h1.6m11.2 0h1.6m25.6 0h1.6M0 35h1.6m41.6 0h1.6m35.2 0h1.6m12.8 0h1.6m4.8 0h1.6M41.6 37h1.6m177.6 0h1.6M32 39h1.6m126.4 0h1.6M49.6 41h1.6m40 0h1.6m6.4 0h1.6m11.2 0h1.6m12.8 0h1.6m76.8 0h1.6M16 43h1.6m59.2 0h1.6m108.8 0h1.6M67.2 45h1.6m27.2 0h1.6m16 0h1.6m80 0h1.6M8 47h1.6m1.6 0h1.6m16 0h1.6m16 0h1.6m91.2 0h1.6m3.2 0h1.6m3.2 0h1.6m8 0h1.6m51.2 0h1.6M4.8 49h1.6m12.8 0h1.6m16 0h1.6m88 0h1.6m40 0h1.6m6.4 0h1.6M158.4 51h1.6m59.2 0h1.6M94.4 53h1.6m3.2 0h1.6h1.6m104 0h1.6m11.2 0h1.6M1.6 55h1.6m38.4 0h1.6m84.8 0h1.6m17.6 0h1.6m12.8 0h1.6m33.6 0h1.6h1.6M22.4 57h1.6m14.4 0h1.6m76.8 0h1.6m8 0h1.6m56 0h1.6h1.6M14.4 59h1.6m11.2 0h1.6m28.8 0h1.6m1.6 0h1.6m4.8 0h1.6m8 0h1.6m24 0h1.6m19.2 0h1.6h1.6m36.8 0h1.6m17.6 0h1.6M60.8 61h1.6m6.4 0h1.6m12.8 0h1.6m9.6 0h1.6m43.2 0h1.6m62.4 0h1.6M8 63h1.6m14.4 0h1.6m56 0h1.6m57.6 0h1.6m12.8 0h1.6m11.2 0h1.6m27.2 0h1.6m20.8 0h1.6M70.4 65h1.6m3.2 0h1.6m48 0h1.6m65.6 0h1.6m8 0h1.6M81.6 67h1.6m22.4 0h1.6m80 0h1.6m14.4 0h1.6h1.6M16 69h1.6m40 0h1.6m19.2 0h1.6m8 0h1.6m72 0h1.6" stroke="#08020a" stroke-width="2" fill="none"/></pattern><pattern id="kR1" width="96" height="48" patternUnits="userSpaceOnUse" x="0" y="1221.6"><path d="M6 1h1.5h1.5m4.5 0h1.5m6 0h1.5m21 0h1.5m3 0h1.5m10.5 0h1.5m4.5 0h1.5m3 0h1.5M3 3h1.5m16.5 0h1.5m16.5 0h1.5m16.5 0h1.5m3 0h1.5m4.5 0h1.5m7.5 0h1.5m9 0h1.5M3 5h1.5m1.5 0h1.5m3 0h1.5m6 0h1.5m12 0h1.5m9 0h1.5m4.5 0h1.5m4.5 0h1.5h1.5m24 0h1.5m12 0h1.5M0 7h1.5m10.5 0h1.5m3 0h1.5m30 0h1.5m21 0h1.5m3 0h1.5M0 9h1.5m13.5 0h1.5m16.5 0h1.5m1.5 0h1.5M15 11h1.5m7.5 0h1.5m4.5 0h1.5m15 0h1.5m1.5 0h1.5m3 0h1.5m7.5 0h1.5m3 0h1.5m3 0h1.5h1.5h1.5m3 0h1.5m6 0h1.5m6 0h1.5M9 13h1.5h1.5m9 0h1.5m7.5 0h1.5m3 0h1.5m1.5 0h1.5m3 0h1.5m15 0h1.5m1.5 0h1.5m19.5 0h1.5m1.5 0h1.5m4.5 0h1.5M0 15h1.5m9 0h1.5h1.5m4.5 0h1.5h1.5m10.5 0h1.5m3 0h1.5m19.5 0h1.5h1.5m9 0h1.5m1.5 0h1.5M0 17h1.5m73.5 0h1.5M10.5 19h1.5m43.5 0h1.5m10.5 0h1.5m13.5 0h1.5M13.5 21h1.5h1.5m9 0h1.5m4.5 0h1.5m19.5 0h1.5m7.5 0h1.5m7.5 0h1.5m1.5 0h1.5m3 0h1.5m3 0h1.5m9 0h1.5M4.5 23h1.5m6 0h1.5m4.5 0h1.5m4.5 0h1.5m3 0h1.5m6 0h1.5m9 0h1.5m3 0h1.5m22.5 0h1.5m6 0h1.5m4.5 0h1.5M28.5 25h1.5h1.5m19.5 0h1.5m4.5 0h1.5m12 0h1.5m6 0h1.5m15 0h1.5M9 27h1.5m3 0h1.5m1.5 0h1.5m12 0h1.5h1.5m31.5 0h1.5m24 0h1.5M3 29h1.5m9 0h1.5h1.5h1.5m6 0h1.5m3 0h1.5h1.5m13.5 0h1.5m18 0h1.5m1.5 0h1.5m1.5 0h1.5m15 0h1.5h1.5M7.5 31h1.5m3 0h1.5h1.5m1.5 0h1.5h1.5m15 0h1.5h1.5m16.5 0h1.5m6 0h1.5m16.5 0h1.5M1.5 33h1.5h1.5m1.5 0h1.5m1.5 0h1.5m3 0h1.5m3 0h1.5m6 0h1.5m36 0h1.5m1.5 0h1.5m4.5 0h1.5M42 35h1.5m3 0h1.5m10.5 0h1.5m15 0h1.5M12 37h1.5m1.5 0h1.5h1.5m3 0h1.5m3 0h1.5m4.5 0h1.5h1.5h1.5m9 0h1.5m3 0h1.5m13.5 0h1.5m7.5 0h1.5m1.5 0h1.5M0 39h1.5m6 0h1.5m3 0h1.5m7.5 0h1.5m21 0h1.5m16.5 0h1.5m15 0h1.5M34.5 41h1.5m15 0h1.5m15 0h1.5m16.5 0h1.5M7.5 43h1.5m13.5 0h1.5m6 0h1.5m10.5 0h1.5m6 0h1.5m7.5 0h1.5m33 0h1.5M7.5 45h1.5m3 0h1.5m12 0h1.5m1.5 0h1.5m6 0h1.5m3 0h1.5m33 0h1.5m3 0h1.5m3 0h1.5m3 0h1.5m4.5 0h1.5M7.5 47h1.5h1.5m6 0h1.5m12 0h1.5m3 0h1.5m13.5 0h1.5m7.5 0h1.5m15 0h1.5m18 0h1.5" stroke="#08020a" stroke-width="2" fill="none"/><path d="M1.5 1h1.5m15 0h1.5m9 0h1.5m28.5 0h1.5m12 0h1.5M12 3h1.5m4.5 0h1.5m3 0h1.5m6 0h1.5h1.5m13.5 0h1.5m12 0h1.5m1.5 0h1.5m19.5 0h1.5m9 0h1.5M13.5 5h1.5m9 0h1.5m10.5 0h1.5m34.5 0h1.5M25.5 7h1.5h1.5m16.5 0h1.5m15 0h1.5h1.5m12 0h1.5h1.5M6 9h1.5m4.5 0h1.5m4.5 0h1.5m22.5 0h1.5m30 0h1.5h1.5h1.5M12 11h1.5h1.5m3 0h1.5m12 0h1.5m15 0h1.5m6 0h1.5m7.5 0h1.5h1.5m1.5 0h1.5m6 0h1.5h1.5m4.5 0h1.5m7.5 0h1.5M0 13h1.5h1.5h1.5h1.5h1.5m19.5 0h1.5m7.5 0h1.5m6 0h1.5m10.5 0h1.5m3 0h1.5m3 0h1.5m22.5 0h1.5h1.5M4.5 15h1.5m1.5 0h1.5m6 0h1.5m7.5 0h1.5m1.5 0h1.5m9 0h1.5m6 0h1.5m13.5 0h1.5m9 0h1.5m3 0h1.5m6 0h1.5m1.5 0h1.5h1.5m6 0h1.5M33 17h1.5h1.5m6 0h1.5m1.5 0h1.5M25.5 19h1.5m12 0h1.5m10.5 0h1.5m9 0h1.5m9 0h1.5m15 0h1.5h1.5h1.5h1.5M0 21h1.5m16.5 0h1.5h1.5m9 0h1.5m22.5 0h1.5m4.5 0h1.5m6 0h1.5m7.5 0h1.5m3 0h1.5m7.5 0h1.5M25.5 23h1.5m3 0h1.5m1.5 0h1.5m4.5 0h1.5h1.5m3 0h1.5m6 0h1.5m7.5 0h1.5m7.5 0h1.5m1.5 0h1.5m12 0h1.5m1.5 0h1.5m3 0h1.5M3 25h1.5h1.5m30 0h1.5m3 0h1.5m4.5 0h1.5m6 0h1.5m3 0h1.5m15 0h1.5M6 27h1.5m10.5 0h1.5m28.5 0h1.5m6 0h1.5h1.5m9 0h1.5m9 0h1.5m12 0h1.5m1.5 0h1.5M4.5 29h1.5h1.5h1.5h1.5m15 0h1.5m10.5 0h1.5m9 0h1.5m4.5 0h1.5h1.5h1.5m13.5 0h1.5m3 0h1.5m1.5 0h1.5h1.5m3 0h1.5m6 0h1.5M15 31h1.5m3 0h1.5m45 0h1.5m1.5 0h1.5m3 0h1.5m10.5 0h1.5m1.5 0h1.5M15 33h1.5m27 0h1.5m10.5 0h1.5m4.5 0h1.5m15 0h1.5m10.5 0h1.5m3 0h1.5M13.5 35h1.5m4.5 0h1.5m9 0h1.5m4.5 0h1.5M0 37h1.5h1.5m4.5 0h1.5m4.5 0h1.5m22.5 0h1.5h1.5m1.5 0h1.5m25.5 0h1.5m12 0h1.5m1.5 0h1.5m1.5 0h1.5m1.5 0h1.5M9 39h1.5h1.5m10.5 0h1.5m6 0h1.5m31.5 0h1.5h1.5m6 0h1.5h1.5m1.5 0h1.5m1.5 0h1.5M13.5 41h1.5m1.5 0h1.5m10.5 0h1.5m6 0h1.5m15 0h1.5m27 0h1.5m6 0h1.5m3 0h1.5M4.5 43h1.5m9 0h1.5h1.5m1.5 0h1.5m3 0h1.5m9 0h1.5h1.5h1.5h1.5m28.5 0h1.5m4.5 0h1.5M4.5 45h1.5h1.5m13.5 0h1.5m12 0h1.5m6 0h1.5m3 0h1.5h1.5m9 0h1.5m9 0h1.5h1.5m4.5 0h1.5m3 0h1.5m4.5 0h1.5M3 47h1.5m19.5 0h1.5m3 0h1.5m1.5 0h1.5m3 0h1.5m18 0h1.5m3 0h1.5m4.5 0h1.5m24 0h1.5" stroke="#2a1c06" stroke-width="2" fill="none"/></pattern><pattern id="kR2" width="96" height="48" patternUnits="userSpaceOnUse" x="0" y="1221.6"><path d="M1.5 1h1.5h1.5m7.5 0h1.5m1.5 0h1.5m3 0h1.5m6 0h1.5m10.5 0h1.5m3 0h1.5m3 0h1.5m3 0h1.5m1.5 0h1.5h1.5m4.5 0h1.5m12 0h1.5m4.5 0h1.5m1.5 0h1.5M12 3h1.5m1.5 0h1.5m15 0h1.5m7.5 0h1.5m1.5 0h1.5h1.5m3 0h1.5h1.5h1.5m4.5 0h1.5h1.5m9 0h1.5m3 0h1.5m3 0h1.5m3 0h1.5m1.5 0h1.5m6 0h1.5M0 5h1.5h1.5m1.5 0h1.5m3 0h1.5h1.5m1.5 0h1.5m3 0h1.5m1.5 0h1.5h1.5m6 0h1.5m4.5 0h1.5m1.5 0h1.5m6 0h1.5m9 0h1.5h1.5m3 0h1.5h1.5m4.5 0h1.5m7.5 0h1.5h1.5h1.5h1.5m1.5 0h1.5m3 0h1.5m1.5 0h1.5M1.5 7h1.5m3 0h1.5m4.5 0h1.5h1.5m6 0h1.5m1.5 0h1.5m19.5 0h1.5m4.5 0h1.5m13.5 0h1.5m1.5 0h1.5m6 0h1.5m1.5 0h1.5m1.5 0h1.5m1.5 0h1.5m3 0h1.5m1.5 0h1.5M7.5 9h1.5m9 0h1.5m15 0h1.5h1.5m1.5 0h1.5m18 0h1.5m9 0h1.5m9 0h1.5m3 0h1.5h1.5h1.5m3 0h1.5M10.5 11h1.5m7.5 0h1.5m1.5 0h1.5m9 0h1.5m4.5 0h1.5h1.5m1.5 0h1.5m1.5 0h1.5m4.5 0h1.5m18 0h1.5m9 0h1.5m9 0h1.5M3 13h1.5m3 0h1.5m10.5 0h1.5h1.5m4.5 0h1.5h1.5m4.5 0h1.5m10.5 0h1.5m1.5 0h1.5m6 0h1.5h1.5m7.5 0h1.5m9 0h1.5m7.5 0h1.5m4.5 0h1.5h1.5M4.5 15h1.5h1.5m1.5 0h1.5h1.5m3 0h1.5m3 0h1.5m4.5 0h1.5m1.5 0h1.5m1.5 0h1.5m3 0h1.5m3 0h1.5m7.5 0h1.5m15 0h1.5m6 0h1.5M0 17h1.5m1.5 0h1.5m18 0h1.5m3 0h1.5m15 0h1.5m10.5 0h1.5m9 0h1.5m1.5 0h1.5m1.5 0h1.5m3 0h1.5h1.5M3 19h1.5m9 0h1.5m9 0h1.5m9 0h1.5m15 0h1.5m4.5 0h1.5m4.5 0h1.5m13.5 0h1.5h1.5M3 21h1.5h1.5m1.5 0h1.5m7.5 0h1.5m19.5 0h1.5h1.5m15 0h1.5m1.5 0h1.5m33 0h1.5M0 23h1.5m12 0h1.5m1.5 0h1.5m7.5 0h1.5m9 0h1.5m7.5 0h1.5h1.5m25.5 0h1.5M9 25h1.5m4.5 0h1.5h1.5h1.5m9 0h1.5m21 0h1.5m25.5 0h1.5m9 0h1.5m1.5 0h1.5M3 27h1.5m9 0h1.5m1.5 0h1.5m9 0h1.5m10.5 0h1.5m15 0h1.5m6 0h1.5m6 0h1.5h1.5m1.5 0h1.5m10.5 0h1.5m3 0h1.5M0 29h1.5m1.5 0h1.5m10.5 0h1.5m4.5 0h1.5m3 0h1.5m6 0h1.5m1.5 0h1.5m9 0h1.5m21 0h1.5h1.5h1.5m3 0h1.5m1.5 0h1.5h1.5m1.5 0h1.5h1.5m1.5 0h1.5M0 31h1.5m1.5 0h1.5m1.5 0h1.5m6 0h1.5h1.5m3 0h1.5m9 0h1.5m6 0h1.5m3 0h1.5m7.5 0h1.5h1.5m3 0h1.5h1.5m7.5 0h1.5h1.5m3 0h1.5m15 0h1.5h1.5M12 33h1.5m3 0h1.5m1.5 0h1.5m3 0h1.5h1.5m10.5 0h1.5m7.5 0h1.5m6 0h1.5h1.5m13.5 0h1.5m3 0h1.5m13.5 0h1.5M6 35h1.5m7.5 0h1.5m12 0h1.5m24 0h1.5h1.5m10.5 0h1.5h1.5h1.5M0 37h1.5m7.5 0h1.5m3 0h1.5m7.5 0h1.5h1.5m1.5 0h1.5m9 0h1.5h1.5h1.5h1.5h1.5m6 0h1.5h1.5m9 0h1.5m13.5 0h1.5m3 0h1.5M4.5 39h1.5m13.5 0h1.5m16.5 0h1.5m6 0h1.5m4.5 0h1.5m9 0h1.5h1.5m21 0h1.5m6 0h1.5M1.5 41h1.5m3 0h1.5m1.5 0h1.5m4.5 0h1.5m13.5 0h1.5m34.5 0h1.5m1.5 0h1.5m6 0h1.5m13.5 0h1.5M0 43h1.5m18 0h1.5m12 0h1.5m1.5 0h1.5m1.5 0h1.5m1.5 0h1.5m9 0h1.5m1.5 0h1.5h1.5m9 0h1.5m9 0h1.5m4.5 0h1.5m4.5 0h1.5M9 45h1.5m10.5 0h1.5m6 0h1.5m4.5 0h1.5m1.5 0h1.5m1.5 0h1.5h1.5h1.5m1.5 0h1.5m7.5 0h1.5m7.5 0h1.5h1.5m1.5 0h1.5h1.5m6 0h1.5m3 0h1.5m1.5 0h1.5h1.5m1.5 0h1.5M6 47h1.5m18 0h1.5m30 0h1.5m3 0h1.5h1.5h1.5m1.5 0h1.5h1.5m4.5 0h1.5m1.5 0h1.5h1.5m6 0h1.5" stroke="#08020a" stroke-width="2" fill="none"/><path d="M9 1h1.5m6 0h1.5m4.5 0h1.5h1.5h1.5m3 0h1.5m6 0h1.5m6 0h1.5h1.5m10.5 0h1.5m7.5 0h1.5h1.5h1.5m7.5 0h1.5m9 0h1.5M18 3h1.5h1.5h1.5h1.5h1.5h1.5m3 0h1.5m3 0h1.5m1.5 0h1.5h1.5m6 0h1.5m6 0h1.5h1.5m4.5 0h1.5m3 0h1.5m13.5 0h1.5m3 0h1.5m1.5 0h1.5h1.5M6 5h1.5m7.5 0h1.5h1.5m1.5 0h1.5m13.5 0h1.5m1.5 0h1.5m16.5 0h1.5m4.5 0h1.5m3 0h1.5h1.5m3 0h1.5h1.5m3 0h1.5m6 0h1.5m1.5 0h1.5M4.5 7h1.5m10.5 0h1.5m4.5 0h1.5m4.5 0h1.5m4.5 0h1.5m10.5 0h1.5m6 0h1.5m3 0h1.5m4.5 0h1.5m9 0h1.5m10.5 0h1.5m3 0h1.5M3 9h1.5m4.5 0h1.5m1.5 0h1.5h1.5h1.5h1.5m10.5 0h1.5h1.5h1.5h1.5m7.5 0h1.5m1.5 0h1.5h1.5m1.5 0h1.5m6 0h1.5m3 0h1.5h1.5m6 0h1.5m1.5 0h1.5m3 0h1.5m1.5 0h1.5h1.5m6 0h1.5M4.5 11h1.5h1.5h1.5m16.5 0h1.5m7.5 0h1.5h1.5h1.5m19.5 0h1.5h1.5m3 0h1.5m9 0h1.5m3 0h1.5M6 13h1.5m22.5 0h1.5m4.5 0h1.5m1.5 0h1.5m4.5 0h1.5m15 0h1.5m1.5 0h1.5m6 0h1.5h1.5m9 0h1.5m6 0h1.5M21 15h1.5m4.5 0h1.5m1.5 0h1.5m1.5 0h1.5h1.5m3 0h1.5m1.5 0h1.5h1.5m1.5 0h1.5m9 0h1.5h1.5m7.5 0h1.5m3 0h1.5m1.5 0h1.5m3 0h1.5m4.5 0h1.5h1.5M6 17h1.5m1.5 0h1.5m1.5 0h1.5m1.5 0h1.5h1.5h1.5m1.5 0h1.5m7.5 0h1.5m4.5 0h1.5h1.5m1.5 0h1.5m7.5 0h1.5h1.5h1.5h1.5m1.5 0h1.5h1.5h1.5m1.5 0h1.5m3 0h1.5m1.5 0h1.5m3 0h1.5m3 0h1.5h1.5m4.5 0h1.5h1.5h1.5M0 19h1.5m3 0h1.5m12 0h1.5h1.5m9 0h1.5m4.5 0h1.5h1.5m7.5 0h1.5m16.5 0h1.5m6 0h1.5m9 0h1.5m1.5 0h1.5h1.5M9 21h1.5m1.5 0h1.5m22.5 0h1.5m19.5 0h1.5m6 0h1.5m3 0h1.5m1.5 0h1.5h1.5m4.5 0h1.5m3 0h1.5h1.5M4.5 23h1.5m36 0h1.5m18 0h1.5m4.5 0h1.5m21 0h1.5M6 25h1.5m3 0h1.5h1.5m21 0h1.5h1.5h1.5m3 0h1.5h1.5m3 0h1.5m13.5 0h1.5m1.5 0h1.5m1.5 0h1.5m1.5 0h1.5m1.5 0h1.5m4.5 0h1.5m1.5 0h1.5h1.5h1.5M7.5 27h1.5m6 0h1.5m7.5 0h1.5m6 0h1.5m1.5 0h1.5m13.5 0h1.5M9 29h1.5h1.5h1.5h1.5m9 0h1.5m1.5 0h1.5h1.5m4.5 0h1.5m4.5 0h1.5h1.5m4.5 0h1.5m1.5 0h1.5m3 0h1.5h1.5h1.5m1.5 0h1.5m4.5 0h1.5m4.5 0h1.5h1.5m6 0h1.5m3 0h1.5M4.5 31h1.5m1.5 0h1.5m3 0h1.5m3 0h1.5m4.5 0h1.5h1.5m1.5 0h1.5m16.5 0h1.5m19.5 0h1.5m3 0h1.5h1.5m3 0h1.5h1.5m3 0h1.5m1.5 0h1.5h1.5h1.5m4.5 0h1.5M1.5 33h1.5m7.5 0h1.5m3 0h1.5m4.5 0h1.5h1.5m12 0h1.5m4.5 0h1.5h1.5m3 0h1.5h1.5m9 0h1.5m6 0h1.5m4.5 0h1.5m4.5 0h1.5h1.5m3 0h1.5m1.5 0h1.5M13.5 35h1.5m4.5 0h1.5m3 0h1.5h1.5m6 0h1.5h1.5m15 0h1.5m7.5 0h1.5m12 0h1.5m4.5 0h1.5m3 0h1.5h1.5m1.5 0h1.5M15 37h1.5h1.5h1.5m9 0h1.5m3 0h1.5h1.5h1.5m7.5 0h1.5m1.5 0h1.5m6 0h1.5h1.5h1.5m4.5 0h1.5h1.5h1.5m1.5 0h1.5m3 0h1.5m9 0h1.5m4.5 0h1.5m1.5 0h1.5M6 39h1.5m16.5 0h1.5m4.5 0h1.5m15 0h1.5m6 0h1.5m4.5 0h1.5m6 0h1.5m6 0h1.5m1.5 0h1.5m1.5 0h1.5M0 41h1.5m12 0h1.5m9 0h1.5m1.5 0h1.5m7.5 0h1.5m13.5 0h1.5m7.5 0h1.5m6 0h1.5m3 0h1.5m6 0h1.5m1.5 0h1.5h1.5m1.5 0h1.5M30 43h1.5m19.5 0h1.5m6 0h1.5m12 0h1.5m18 0h1.5M1.5 45h1.5h1.5m1.5 0h1.5h1.5m3 0h1.5h1.5h1.5m9 0h1.5h1.5m3 0h1.5m6 0h1.5m7.5 0h1.5m4.5 0h1.5m3 0h1.5h1.5h1.5m9 0h1.5h1.5m6 0h1.5m12 0h1.5M0 47h1.5m7.5 0h1.5h1.5m1.5 0h1.5m7.5 0h1.5m15 0h1.5h1.5m12 0h1.5m18 0h1.5m18 0h1.5" stroke="#2a1c06" stroke-width="2" fill="none"/></pattern><pattern id="mR1" width="112" height="48" patternUnits="userSpaceOnUse" x="0" y="1221.6"><path d="M66 1h1.5m30 0h1.5M10.5 3h1.5m88.5 0h1.5M19.5 5h1.5m4.5 0h1.5M9 7h1.5m12 0h1.5h1.5m12 0h1.5m12 0h1.5M106.5 9h1.5M9 13h1.5M0 15h1.5m4.5 0h1.5m9 0h1.5m33 0h1.5m6 0h1.5m4.5 0h1.5m19.5 0h1.5m13.5 0h1.5M0 17h1.5m34.5 0h1.5m22.5 0h1.5h1.5m45 0h1.5M43.5 19h1.5m22.5 0h1.5h1.5m7.5 0h1.5M48 21h1.5m24 0h1.5M66 23h1.5M36 25h1.5m21 0h1.5M85.5 27h1.5M57 29h1.5m15 0h1.5m6 0h1.5M100.5 31h1.5M99 33h1.5M27 35h1.5m21 0h1.5M46.5 37h1.5m18 0h1.5M22.5 39h1.5h1.5m1.5 0h1.5M0 41h1.5m15 0h1.5m13.5 0h1.5m42 0h1.5M54 43h1.5m36 0h1.5M0 45h1.5m6 0h1.5m10.5 0h1.5m33 0h1.5m3 0h1.5" stroke="#c428c8" stroke-width="2" fill="none"/><path d="M6 1h1.5m3 0h1.5m6 0h1.5m10.5 0h1.5h1.5m10.5 0h1.5m27 0h1.5m1.5 0h1.5M39 3h1.5m13.5 0h1.5m33 0h1.5M39 5h1.5m25.5 0h1.5m28.5 0h1.5m1.5 0h1.5M76.5 7h1.5m24 0h1.5M7.5 9h1.5m1.5 0h1.5m16.5 0h1.5m25.5 0h1.5m15 0h1.5M6 11h1.5h1.5m18 0h1.5m3 0h1.5m7.5 0h1.5m1.5 0h1.5m7.5 0h1.5m19.5 0h1.5m1.5 0h1.5m24 0h1.5m4.5 0h1.5M3 15h1.5m19.5 0h1.5m12 0h1.5m1.5 0h1.5m13.5 0h1.5m18 0h1.5m1.5 0h1.5M3 17h1.5m18 0h1.5h1.5m6 0h1.5m54 0h1.5M42 19h1.5m4.5 0h1.5m1.5 0h1.5m1.5 0h1.5m46.5 0h1.5M3 21h1.5m1.5 0h1.5m19.5 0h1.5m1.5 0h1.5m1.5 0h1.5m21 0h1.5m12 0h1.5m12 0h1.5M0 23h1.5m3 0h1.5m40.5 0h1.5m34.5 0h1.5m6 0h1.5h1.5m4.5 0h1.5h1.5M0 25h1.5m6 0h1.5m19.5 0h1.5m3 0h1.5m12 0h1.5m1.5 0h1.5h1.5m9 0h1.5m40.5 0h1.5M3 27h1.5m37.5 0h1.5m9 0h1.5m7.5 0h1.5M4.5 29h1.5m9 0h1.5m54 0h1.5m28.5 0h1.5M18 31h1.5h1.5m7.5 0h1.5m52.5 0h1.5M13.5 33h1.5m9 0h1.5m30 0h1.5m13.5 0h1.5m34.5 0h1.5M9 37h1.5m9 0h1.5m3 0h1.5m54 0h1.5m24 0h1.5M10.5 39h1.5m28.5 0h1.5m7.5 0h1.5m16.5 0h1.5m34.5 0h1.5h1.5h1.5M13.5 41h1.5m18 0h1.5m6 0h1.5m40.5 0h1.5m13.5 0h1.5M12 43h1.5m16.5 0h1.5m12 0h1.5m42 0h1.5m16.5 0h1.5M4.5 45h1.5m69 0h1.5M0 47h1.5m12 0h1.5m27 0h1.5" stroke="#7a1686" stroke-width="2" fill="none"/></pattern><pattern id="mR2" width="112" height="48" patternUnits="userSpaceOnUse" x="0" y="1221.6"><path d="M0 1h1.5h1.5m21 0h1.5m4.5 0h1.5m15 0h1.5m1.5 0h1.5m6 0h1.5m22.5 0h1.5m24 0h1.5M13.5 3h1.5m30 0h1.5m3 0h1.5m6 0h1.5m18 0h1.5m4.5 0h1.5m10.5 0h1.5M13.5 5h1.5h1.5m27 0h1.5m16.5 0h1.5m13.5 0h1.5m1.5 0h1.5m3 0h1.5m9 0h1.5m1.5 0h1.5M3 7h1.5m43.5 0h1.5m9 0h1.5h1.5m19.5 0h1.5M9 9h1.5m1.5 0h1.5m13.5 0h1.5h1.5m3 0h1.5m1.5 0h1.5m6 0h1.5m7.5 0h1.5m9 0h1.5m7.5 0h1.5m1.5 0h1.5m3 0h1.5m7.5 0h1.5m1.5 0h1.5m1.5 0h1.5M22.5 11h1.5m1.5 0h1.5m13.5 0h1.5m3 0h1.5m6 0h1.5m4.5 0h1.5m10.5 0h1.5m6 0h1.5m9 0h1.5M10.5 13h1.5m4.5 0h1.5m1.5 0h1.5m4.5 0h1.5h1.5m3 0h1.5m3 0h1.5m6 0h1.5m3 0h1.5m3 0h1.5m3 0h1.5m3 0h1.5m7.5 0h1.5m6 0h1.5m4.5 0h1.5h1.5m12 0h1.5m4.5 0h1.5m1.5 0h1.5h1.5M1.5 15h1.5m9 0h1.5m64.5 0h1.5h1.5m15 0h1.5M1.5 17h1.5h1.5h1.5m9 0h1.5h1.5m24 0h1.5m37.5 0h1.5m24 0h1.5M15 19h1.5m4.5 0h1.5m4.5 0h1.5m4.5 0h1.5m10.5 0h1.5m6 0h1.5h1.5m4.5 0h1.5m16.5 0h1.5m4.5 0h1.5m4.5 0h1.5m12 0h1.5h1.5m3 0h1.5M25.5 21h1.5m3 0h1.5m25.5 0h1.5m6 0h1.5m40.5 0h1.5M3 23h1.5m9 0h1.5m7.5 0h1.5m15 0h1.5m6 0h1.5h1.5m3 0h1.5m3 0h1.5m13.5 0h1.5h1.5m10.5 0h1.5m1.5 0h1.5m15 0h1.5m1.5 0h1.5M33 25h1.5m30 0h1.5m6 0h1.5m13.5 0h1.5m1.5 0h1.5m3 0h1.5m6 0h1.5M9 27h1.5m4.5 0h1.5h1.5m4.5 0h1.5m9 0h1.5h1.5m30 0h1.5m7.5 0h1.5m4.5 0h1.5m4.5 0h1.5m1.5 0h1.5m3 0h1.5m3 0h1.5h1.5m7.5 0h1.5M0 29h1.5m30 0h1.5m4.5 0h1.5m6 0h1.5m7.5 0h1.5m6 0h1.5m19.5 0h1.5m12 0h1.5m7.5 0h1.5M0 31h1.5m4.5 0h1.5m9 0h1.5m1.5 0h1.5m21 0h1.5h1.5h1.5m25.5 0h1.5M3 33h1.5m19.5 0h1.5m3 0h1.5m19.5 0h1.5m10.5 0h1.5m12 0h1.5m7.5 0h1.5m7.5 0h1.5M15 35h1.5m9 0h1.5m3 0h1.5m7.5 0h1.5m4.5 0h1.5m19.5 0h1.5m10.5 0h1.5m27 0h1.5M7.5 37h1.5m3 0h1.5m15 0h1.5m1.5 0h1.5m4.5 0h1.5m19.5 0h1.5m4.5 0h1.5m1.5 0h1.5h1.5m4.5 0h1.5m7.5 0h1.5m3 0h1.5m3 0h1.5M39 39h1.5m1.5 0h1.5m10.5 0h1.5m1.5 0h1.5m1.5 0h1.5m6 0h1.5m19.5 0h1.5m7.5 0h1.5m7.5 0h1.5M1.5 41h1.5h1.5m22.5 0h1.5h1.5m9 0h1.5m12 0h1.5m15 0h1.5m6 0h1.5m27 0h1.5M4.5 43h1.5h1.5m7.5 0h1.5m1.5 0h1.5m13.5 0h1.5m33 0h1.5h1.5h1.5m6 0h1.5m3 0h1.5h1.5h1.5m6 0h1.5m3 0h1.5m6 0h1.5M4.5 45h1.5m12 0h1.5m30 0h1.5m12 0h1.5m39 0h1.5M4.5 47h1.5m34.5 0h1.5h1.5h1.5m3 0h1.5m1.5 0h1.5m16.5 0h1.5m9 0h1.5m28.5 0h1.5" stroke="#c428c8" stroke-width="2" fill="none"/><path d="M7.5 1h1.5m43.5 0h1.5m6 0h1.5m1.5 0h1.5m6 0h1.5h1.5m6 0h1.5M0 3h1.5m21 0h1.5m51 0h1.5m24 0h1.5m6 0h1.5M21 5h1.5m7.5 0h1.5h1.5m3 0h1.5m1.5 0h1.5m9 0h1.5m4.5 0h1.5m6 0h1.5m21 0h1.5m6 0h1.5M21 7h1.5m22.5 0h1.5m9 0h1.5h1.5m21 0h1.5m9 0h1.5h1.5m4.5 0h1.5m10.5 0h1.5M3 9h1.5m13.5 0h1.5m3 0h1.5h1.5m6 0h1.5m6 0h1.5m6 0h1.5m1.5 0h1.5m3 0h1.5h1.5m1.5 0h1.5m10.5 0h1.5m4.5 0h1.5m7.5 0h1.5M0 11h1.5m30 0h1.5m16.5 0h1.5m16.5 0h1.5m7.5 0h1.5m12 0h1.5m9 0h1.5m7.5 0h1.5M7.5 13h1.5m9 0h1.5m9 0h1.5m19.5 0h1.5m3 0h1.5h1.5m9 0h1.5h1.5m3 0h1.5m3 0h1.5m4.5 0h1.5m6 0h1.5m6 0h1.5M16.5 15h1.5h1.5m33 0h1.5m15 0h1.5m24 0h1.5m4.5 0h1.5m7.5 0h1.5M7.5 17h1.5h1.5h1.5m15 0h1.5h1.5m3 0h1.5h1.5m7.5 0h1.5m1.5 0h1.5m4.5 0h1.5h1.5m3 0h1.5h1.5h1.5h1.5m6 0h1.5h1.5h1.5m3 0h1.5m4.5 0h1.5m6 0h1.5h1.5m10.5 0h1.5M10.5 19h1.5m16.5 0h1.5h1.5m19.5 0h1.5m4.5 0h1.5m4.5 0h1.5m21 0h1.5m13.5 0h1.5M19.5 21h1.5m27 0h1.5m31.5 0h1.5m1.5 0h1.5m3 0h1.5m13.5 0h1.5M4.5 23h1.5h1.5h1.5m1.5 0h1.5m18 0h1.5m9 0h1.5m39 0h1.5h1.5m6 0h1.5m1.5 0h1.5m6 0h1.5M16.5 25h1.5m22.5 0h1.5m7.5 0h1.5m10.5 0h1.5m15 0h1.5m13.5 0h1.5m3 0h1.5m9 0h1.5h1.5M18 27h1.5m7.5 0h1.5h1.5m7.5 0h1.5m10.5 0h1.5m6 0h1.5h1.5m1.5 0h1.5h1.5m4.5 0h1.5m6 0h1.5h1.5m3 0h1.5m4.5 0h1.5m3 0h1.5m7.5 0h1.5M10.5 29h1.5h1.5m6 0h1.5m27 0h1.5m19.5 0h1.5h1.5m4.5 0h1.5m1.5 0h1.5m3 0h1.5h1.5m12 0h1.5h1.5m6 0h1.5M66 31h1.5h1.5m12 0h1.5m4.5 0h1.5m19.5 0h1.5M0 33h1.5m18 0h1.5h1.5h1.5m1.5 0h1.5m4.5 0h1.5m9 0h1.5h1.5m1.5 0h1.5h1.5m7.5 0h1.5m7.5 0h1.5m3 0h1.5h1.5h1.5m1.5 0h1.5m3 0h1.5m3 0h1.5h1.5m3 0h1.5m6 0h1.5h1.5h1.5h1.5M6 35h1.5m3 0h1.5m15 0h1.5m9 0h1.5m7.5 0h1.5m10.5 0h1.5m10.5 0h1.5h1.5m12 0h1.5h1.5h1.5m3 0h1.5m1.5 0h1.5m1.5 0h1.5M3 37h1.5m4.5 0h1.5m3 0h1.5m1.5 0h1.5m4.5 0h1.5m10.5 0h1.5m4.5 0h1.5m15 0h1.5m1.5 0h1.5m4.5 0h1.5m6 0h1.5m7.5 0h1.5m7.5 0h1.5m6 0h1.5m6 0h1.5M0 39h1.5m10.5 0h1.5m13.5 0h1.5m3 0h1.5m3 0h1.5m7.5 0h1.5m9 0h1.5m1.5 0h1.5m3 0h1.5m10.5 0h1.5h1.5m3 0h1.5m9 0h1.5m3 0h1.5m3 0h1.5h1.5m4.5 0h1.5M0 41h1.5m31.5 0h1.5m9 0h1.5m22.5 0h1.5m13.5 0h1.5m13.5 0h1.5m1.5 0h1.5M1.5 43h1.5m4.5 0h1.5m10.5 0h1.5m16.5 0h1.5m1.5 0h1.5m7.5 0h1.5h1.5m3 0h1.5h1.5m13.5 0h1.5m6 0h1.5m6 0h1.5m13.5 0h1.5m3 0h1.5M7.5 45h1.5m15 0h1.5m9 0h1.5m18 0h1.5m13.5 0h1.5m10.5 0h1.5m12 0h1.5m3 0h1.5M0 47h1.5m21 0h1.5m13.5 0h1.5m16.5 0h1.5m4.5 0h1.5m22.5 0h1.5m6 0h1.5h1.5m4.5 0h1.5" stroke="#7a1686" stroke-width="2" fill="none"/></pattern><pattern id="yR1" width="128" height="48" patternUnits="userSpaceOnUse" x="0" y="1221.6"><path d="M3 1h1.5m22.5 0h1.5m9 0h1.5m33 0h1.5m36 0h1.5m1.5 0h1.5M7.5 3h1.5m9 0h1.5m1.5 0h1.5M4.5 5h1.5m22.5 0h1.5m4.5 0h1.5m25.5 0h1.5m3 0h1.5m3 0h1.5m31.5 0h1.5m6 0h1.5m12 0h1.5M15 7h1.5m21 0h1.5m12 0h1.5h1.5m19.5 0h1.5M42 9h1.5m7.5 0h1.5m4.5 0h1.5m10.5 0h1.5m10.5 0h1.5m13.5 0h1.5m19.5 0h1.5M33 11h1.5h1.5m40.5 0h1.5m1.5 0h1.5m22.5 0h1.5m16.5 0h1.5M27 13h1.5m24 0h1.5h1.5m4.5 0h1.5m6 0h1.5m12 0h1.5m33 0h1.5M43.5 15h1.5m18 0h1.5m6 0h1.5m7.5 0h1.5m6 0h1.5m1.5 0h1.5M7.5 17h1.5m48 0h1.5h1.5m22.5 0h1.5M27 19h1.5m21 0h1.5m6 0h1.5m4.5 0h1.5m1.5 0h1.5m18 0h1.5m7.5 0h1.5m13.5 0h1.5M61.5 21h1.5m9 0h1.5m22.5 0h1.5m10.5 0h1.5m4.5 0h1.5M25.5 23h1.5m45 0h1.5M45 25h1.5m33 0h1.5m9 0h1.5m12 0h1.5M7.5 27h1.5m39 0h1.5m39 0h1.5M1.5 29h1.5m13.5 0h1.5m52.5 0h1.5m18 0h1.5m10.5 0h1.5m3 0h1.5m6 0h1.5M1.5 31h1.5m10.5 0h1.5m6 0h1.5m22.5 0h1.5m27 0h1.5m1.5 0h1.5m12 0h1.5m25.5 0h1.5M4.5 33h1.5m18 0h1.5m13.5 0h1.5m39 0h1.5M24 35h1.5m10.5 0h1.5h1.5m7.5 0h1.5m22.5 0h1.5m7.5 0h1.5m1.5 0h1.5m1.5 0h1.5h1.5h1.5M6 37h1.5m18 0h1.5m18 0h1.5m7.5 0h1.5m9 0h1.5m21 0h1.5m21 0h1.5m12 0h1.5M31.5 39h1.5M19.5 41h1.5m21 0h1.5h1.5m30 0h1.5m1.5 0h1.5h1.5m24 0h1.5m6 0h1.5M12 43h1.5m72 0h1.5M10.5 45h1.5m15 0h1.5m15 0h1.5m42 0h1.5m10.5 0h1.5m7.5 0h1.5M10.5 47h1.5m19.5 0h1.5m7.5 0h1.5m3 0h1.5m13.5 0h1.5m13.5 0h1.5h1.5m21 0h1.5" stroke="#e9da30" stroke-width="2" fill="none"/><path d="M12 1h1.5m25.5 0h1.5m3 0h1.5m48 0h1.5m16.5 0h1.5m6 0h1.5M12 3h1.5m54 0h1.5m4.5 0h1.5m13.5 0h1.5m10.5 0h1.5m16.5 0h1.5M64.5 5h1.5m10.5 0h1.5m12 0h1.5m16.5 0h1.5M10.5 7h1.5m91.5 0h1.5m9 0h1.5M39 9h1.5m6 0h1.5m15 0h1.5m6 0h1.5m22.5 0h1.5m15 0h1.5M46.5 11h1.5m39 0h1.5M4.5 13h1.5M10.5 15h1.5m10.5 0h1.5M40.5 17h1.5m3 0h1.5m27 0h1.5m43.5 0h1.5M9 19h1.5m1.5 0h1.5m10.5 0h1.5m3 0h1.5m9 0h1.5m64.5 0h1.5M69 21h1.5m39 0h1.5M3 23h1.5m4.5 0h1.5m16.5 0h1.5m7.5 0h1.5m6 0h1.5m30 0h1.5m10.5 0h1.5M22.5 25h1.5m24 0h1.5m4.5 0h1.5m36 0h1.5m27 0h1.5M36 27h1.5M9 29h1.5m30 0h1.5m6 0h1.5M34.5 31h1.5m46.5 0h1.5M51 33h1.5m70.5 0h1.5M43.5 35h1.5m19.5 0h1.5m15 0h1.5M13.5 37h1.5m51 0h1.5M15 39h1.5m4.5 0h1.5m42 0h1.5M6 41h1.5m18 0h1.5m34.5 0h1.5M16.5 43h1.5m63 0h1.5M0 45h1.5m46.5 0h1.5m34.5 0h1.5m7.5 0h1.5h1.5m19.5 0h1.5m6 0h1.5M1.5 47h1.5m3 0h1.5m103.5 0h1.5m12 0h1.5h1.5" stroke="#d8bc7c" stroke-width="2" fill="none"/></pattern><pattern id="yR2" width="128" height="48" patternUnits="userSpaceOnUse" x="0" y="1221.6"><path d="M3 1h1.5m13.5 0h1.5m7.5 0h1.5m16.5 0h1.5m21 0h1.5m3 0h1.5m3 0h1.5m15 0h1.5m1.5 0h1.5m7.5 0h1.5m4.5 0h1.5M25.5 3h1.5m27 0h1.5m36 0h1.5m12 0h1.5M1.5 5h1.5m4.5 0h1.5m13.5 0h1.5m6 0h1.5m10.5 0h1.5m33 0h1.5m15 0h1.5h1.5m1.5 0h1.5m3 0h1.5h1.5m12 0h1.5M7.5 7h1.5m7.5 0h1.5m15 0h1.5m24 0h1.5m18 0h1.5h1.5M31.5 9h1.5m31.5 0h1.5m4.5 0h1.5m18 0h1.5m6 0h1.5m12 0h1.5m6 0h1.5M1.5 11h1.5h1.5m15 0h1.5m1.5 0h1.5m19.5 0h1.5m7.5 0h1.5m10.5 0h1.5h1.5h1.5h1.5m1.5 0h1.5m4.5 0h1.5m1.5 0h1.5m4.5 0h1.5m1.5 0h1.5m1.5 0h1.5m4.5 0h1.5h1.5m1.5 0h1.5m13.5 0h1.5h1.5M6 13h1.5h1.5m4.5 0h1.5m9 0h1.5m9 0h1.5m34.5 0h1.5h1.5m10.5 0h1.5m16.5 0h1.5h1.5m9 0h1.5M3 15h1.5h1.5m1.5 0h1.5m1.5 0h1.5m1.5 0h1.5m6 0h1.5m1.5 0h1.5m9 0h1.5m9 0h1.5h1.5m4.5 0h1.5m18 0h1.5m7.5 0h1.5m9 0h1.5m6 0h1.5m7.5 0h1.5m4.5 0h1.5h1.5M19.5 17h1.5m6 0h1.5h1.5m28.5 0h1.5m3 0h1.5m9 0h1.5m30 0h1.5m19.5 0h1.5M3 19h1.5m3 0h1.5m9 0h1.5m4.5 0h1.5m27 0h1.5m25.5 0h1.5m6 0h1.5m13.5 0h1.5m6 0h1.5m9 0h1.5h1.5M1.5 21h1.5m24 0h1.5m6 0h1.5m7.5 0h1.5h1.5m25.5 0h1.5m9 0h1.5m1.5 0h1.5m1.5 0h1.5m1.5 0h1.5h1.5m4.5 0h1.5m12 0h1.5m1.5 0h1.5m3 0h1.5M4.5 23h1.5h1.5m34.5 0h1.5m34.5 0h1.5h1.5m13.5 0h1.5m13.5 0h1.5m10.5 0h1.5M3 25h1.5m18 0h1.5m3 0h1.5m22.5 0h1.5m30 0h1.5m4.5 0h1.5m1.5 0h1.5M3 27h1.5h1.5h1.5m28.5 0h1.5m79.5 0h1.5M10.5 29h1.5m15 0h1.5m4.5 0h1.5m1.5 0h1.5m42 0h1.5m22.5 0h1.5m4.5 0h1.5m3 0h1.5m6 0h1.5M6 31h1.5m1.5 0h1.5m4.5 0h1.5m22.5 0h1.5m7.5 0h1.5m24 0h1.5m7.5 0h1.5m4.5 0h1.5h1.5m10.5 0h1.5M0 33h1.5m18 0h1.5m64.5 0h1.5m15 0h1.5m18 0h1.5m3 0h1.5M7.5 35h1.5m1.5 0h1.5m4.5 0h1.5m10.5 0h1.5m18 0h1.5h1.5m30 0h1.5m7.5 0h1.5m6 0h1.5m1.5 0h1.5m3 0h1.5M6 37h1.5m13.5 0h1.5h1.5m4.5 0h1.5h1.5m12 0h1.5m10.5 0h1.5m3 0h1.5m3 0h1.5m4.5 0h1.5m4.5 0h1.5m9 0h1.5h1.5m1.5 0h1.5m6 0h1.5m6 0h1.5m3 0h1.5m3 0h1.5M1.5 39h1.5m21 0h1.5h1.5m33 0h1.5m4.5 0h1.5m12 0h1.5m21 0h1.5m7.5 0h1.5m12 0h1.5M36 41h1.5m6 0h1.5m18 0h1.5m39 0h1.5m4.5 0h1.5m9 0h1.5M0 43h1.5m13.5 0h1.5m7.5 0h1.5m7.5 0h1.5h1.5m22.5 0h1.5m4.5 0h1.5m19.5 0h1.5m9 0h1.5m7.5 0h1.5M0 45h1.5m3 0h1.5m6 0h1.5m60 0h1.5m1.5 0h1.5m25.5 0h1.5m3 0h1.5m4.5 0h1.5m1.5 0h1.5M12 47h1.5m9 0h1.5m15 0h1.5m16.5 0h1.5m19.5 0h1.5m9 0h1.5m1.5 0h1.5m9 0h1.5m4.5 0h1.5" stroke="#e9da30" stroke-width="2" fill="none"/><path d="M9 1h1.5m15 0h1.5m22.5 0h1.5m28.5 0h1.5m7.5 0h1.5h1.5m3 0h1.5m4.5 0h1.5M24 3h1.5m3 0h1.5m64.5 0h1.5M109.5 5h1.5M36 7h1.5m43.5 0h1.5m1.5 0h1.5m10.5 0h1.5h1.5m24 0h1.5M40.5 9h1.5m67.5 0h1.5M15 11h1.5m9 0h1.5m6 0h1.5m3 0h1.5m63 0h1.5m6 0h1.5m12 0h1.5M45 13h1.5m10.5 0h1.5h1.5M22.5 15h1.5m27 0h1.5m48 0h1.5m10.5 0h1.5M4.5 17h1.5m61.5 0h1.5m6 0h1.5m9 0h1.5m1.5 0h1.5m34.5 0h1.5M33 19h1.5m57 0h1.5m6 0h1.5m16.5 0h1.5h1.5M60 21h1.5m13.5 0h1.5m10.5 0h1.5M63 23h1.5M16.5 25h1.5m88.5 0h1.5m4.5 0h1.5M55.5 27h1.5m36 0h1.5m10.5 0h1.5m3 0h1.5m4.5 0h1.5M18 29h1.5m19.5 0h1.5m18 0h1.5m46.5 0h1.5M12 31h1.5m9 0h1.5m1.5 0h1.5m3 0h1.5m9 0h1.5m15 0h1.5m21 0h1.5m4.5 0h1.5m9 0h1.5m6 0h1.5m6 0h1.5m1.5 0h1.5M34.5 33h1.5m1.5 0h1.5m3 0h1.5m30 0h1.5m30 0h1.5M3 35h1.5m13.5 0h1.5m3 0h1.5m88.5 0h1.5m4.5 0h1.5m6 0h1.5M10.5 37h1.5m25.5 0h1.5m7.5 0h1.5m6 0h1.5m1.5 0h1.5m67.5 0h1.5M3 39h1.5m15 0h1.5m13.5 0h1.5m3 0h1.5m6 0h1.5m24 0h1.5h1.5m22.5 0h1.5m4.5 0h1.5m1.5 0h1.5M6 41h1.5M7.5 43h1.5m9 0h1.5m12 0h1.5m22.5 0h1.5h1.5m15 0h1.5m3 0h1.5m1.5 0h1.5h1.5m10.5 0h1.5m27 0h1.5M9 45h1.5m28.5 0h1.5m1.5 0h1.5m43.5 0h1.5M81 47h1.5m37.5 0h1.5m3 0h1.5" stroke="#d8bc7c" stroke-width="2" fill="none"/></pattern><filter id="hb" x="-1%" y="-1%" width="102%" height="102%"><feGaussianBlur stdDeviation=".6 .5"/></filter><g filter="url(#hb)"><rect x="53" y="1221.6" width="698.8" height="521.1" fill="#190319"/><path d="M53 1222.6H751.8m0 4H53" stroke="#3c3c0a" stroke-width="2" fill="none"/><path d="M53 1224.6H751.8m0 4H53" stroke="#3c320a" stroke-width="2" fill="none"/><path d="M53 1230.6H751.8" stroke="#463c0a" stroke-width="2" fill="none"/><rect x="53" y="1231.6" width="698.8" height="1" fill="#3c143c"/><path d="M53 1233.6H751.8m0 10H53m0 2H751.8m0 17.4H53m0 2H751.8m0 4H53m0 2H751.8m0 18H53m0 2H751.8m0 4H53m0 138H751.8m0 23H53m0 2H751.8m0 10H53m0 12H751.8m0 12H53m0 26H751.8m0 7H53m0 2H751.8m0 4H53m0 2H751.8m0 6H53m0 29H751.8m0 18H53m0 4H751.8m0 8H53m0 14H751.8m0 37H53m0 26H751.8m0 24H53m0 16H751.8m0 14H53" stroke="#1e0028" stroke-width="2" fill="none"/><rect x="53" y="1742" width="698.8" height="0.7" fill="#1e0028"/><path d="M53 1235.6H751.8m0 6H53m0 59.4H751.8m0 12H53m0 10H751.8m0 2H53m0 4H751.8m0 14H53m0 17H751.8m0 2H53m0 6H751.8m0 4H53m0 18H751.8m0 16H53m0 4H751.8m0 2H53m0 70H751.8m0 14H53m0 84H751.8m0 22H53m0 4H751.8m0 8H53m0 2H751.8" stroke="#32003c" stroke-width="2" fill="none"/><rect x="53" y="1260.6" width="698.8" height="1.4" fill="#32003c"/><path d="M53 1237.6H751.8m0 12H53m0 17.4H751.8m0 8H53m0 18H751.8m0 54H53m0 6H751.8m0 2H53m0 27H751.8m0 2H53m0 51H751.8m0 19H53m0 8H751.8m0 4H53m0 10H751.8m0 12H53m0 15H751.8m0 18H53m0 2H751.8m0 21H53m0 2H751.8m0 2H53m0 2H751.8m0 2H53m0 2H751.8m0 4H53m0 2H751.8m0 6H53m0 52H751.8m0 2H53m0 8H751.8m0 2H53m0 4H751.8m0 6H53m0 23H751.8m0 8H53m0 14H751.8m0 2H53m0 2H751.8m0 14H53m0 10H751.8m0 10H53" stroke="#0a000a" stroke-width="2" fill="none"/><rect x="53" y="1356" width="698.8" height="1" fill="#0a000a"/><path d="M53 1239.6H751.8m0 20H53m0 47.4H751.8m0 28H53m0 43H751.8m0 8H53m0 10H751.8m0 2H53m0 100H751.8" stroke="#320a3c" stroke-width="2" fill="none"/><path d="M53 1247.6H751.8m0 4H53m0 2H751.8m0 2H53m0 2H751.8m0 15.4H53m0 4H751.8m0 2H53m0 4H751.8m0 4H53m0 12H751.8m0 4H53m0 2H751.8m0 6H53m0 6H751.8m0 2H53m0 8H751.8m0 6H53m0 4H751.8m0 12H53m0 2H751.8m0 7H53m0 12H751.8m0 4H53m0 6H751.8m0 12H53m0 2H751.8m0 8H53m0 12H751.8m0 3H53m0 2H751.8m0 10H53m0 2H751.8m0 55H53m0 4H751.8m0 4H53m0 22H751.8m0 54H53m0 2H751.8m0 2H53m0 2H751.8m0 6H53m0 2H751.8m0 4H53m0 4H751.8m0 2H53m0 2H751.8m0 8H53m0 4H751.8m0 2H53m0 41H751.8m0 6H53" stroke="#280032" stroke-width="2" fill="none"/><rect x="53" y="1436" width="698.8" height="1" fill="#280032"/><rect x="53" y="1519" width="698.8" height="1" fill="#280032"/><path d="M53 1281H751.8m0 4H53m0 138H751.8m0 2H53m0 35H751.8m0 4H53m0 6H751.8m0 59H53m0 124H751.8m0 2H53m0 4H751.8m0 2H53m0 8H751.8m0 10H53m0 2H751.8m0 30H53m0 8H751.8m0 8H53m0 8H751.8m0 4H53m0 2H751.8" stroke="#1e001e" stroke-width="2" fill="none"/><rect x="53" y="1540" width="698.8" height="1" fill="#1e001e"/><path d="M53 1297H751.8m0 24H53m0 24H751.8m0 21H53m0 22H751.8m0 33H53m0 6H751.8m0 45H53m0 65H751.8m0 41H53m0 22H751.8m0 22H53m0 20H751.8m0 3H53m0 2H751.8" stroke="#280028" stroke-width="2" fill="none"/><rect x="53" y="1499" width="698.8" height="1" fill="#280028"/><path d="M53 1309H751.8m0 22H53m0 69H751.8" stroke="#320a46" stroke-width="2" fill="none"/><path d="M53 1315H751.8m0 24H53m0 2H751.8m0 23H53m0 12H751.8m0 28H53m0 4H751.8" stroke="#3c0a46" stroke-width="2" fill="none"/><rect x="53" y="1415" width="698.8" height="1" fill="#3c0a46"/><path d="M53 1438H751.8m0 63H53" stroke="#3c0a50" stroke-width="2" fill="none"/><path d="M53 1440H751.8m0 4H53m0 61H751.8m0 4H53m0 2H751.8" stroke="#500a64" stroke-width="2" fill="none"/><path d="M53 1442H751.8m0 6H53" stroke="#5a0a6e" stroke-width="2" fill="none"/><rect x="53" y="1514" width="698.8" height="1" fill="#5a0a6e"/><path d="M53 1446H751.8m0 4H53m0 63H751.8" stroke="#460a5a" stroke-width="2" fill="none"/><path d="M53 1452H751.8m0 55H53m0 166H751.8m0 10H53m0 12H751.8m0 2H53m0 20H751.8m0 20H53" stroke="#460a50" stroke-width="2" fill="none"/><path d="M53 1474H751.8m0 4H53m0 6H751.8m0 181H53m0 26H751.8m0 14H53m0 2H751.8m0 2H53m0 12H751.8m0 10H53m0 2H751.8" stroke="#14001e" stroke-width="2" fill="none"/><path d="M53 1535H751.8" stroke="#500a5a" stroke-width="2" fill="none"/><path d="M53 1542H751.8m0 14H53m0 6H751.8m0 2H53m0 60H751.8m0 8H53m0 4H751.8m0 2H53" stroke="#0a0014" stroke-width="2" fill="none"/><path d="M53 1626H751.8m0 41H53m0 10H751.8m0 16H53m0 8H751.8m0 24H53" stroke="#140014" stroke-width="2" fill="none"/><rect x="53" y="1643" width="698.8" height="1" fill="#140014"/><path d="M59 1232.6v510.1m20 0v-510.1m20 0v510.1m6 0v-510.1m2 0v510.1m3 0v-510.1m6 0v510.1m2 0v-510.1m2 0v510.1m14 0v-510.1m3 0v510.1m3 0v-510.1m3 0v510.1m4 0v-510.1m2 0v510.1m20 0v-510.1m2 0v510.1m6 0v-510.1m3 0v510.1m4 0v-510.1m4 0v510.1m9 0v-510.1m20 0v510.1m3 0v-510.1m6 0v510.1m20 0v-510.1m14 0v510.1m14 0v-510.1m3 0v510.1m20 0v-510.1m6 0v510.1m3 0v-510.1m2 0v510.1m20 0v-510.1m2 0v510.1m2 0v-510.1m20 0v510.1m6 0v-510.1m4 0v510.1m6 0v-510.1m9 0v510.1m14 0v-510.1m3 0v510.1m9 0v-510.1m20 0v510.1m4 0v-510.1m6 0v510.1m6 0v-510.1m20 0v510.1m20 0v-510.1m9 0v510.1m20 0v-510.1m4 0v510.1m6 0v-510.1m3 0v510.1m3 0v-510.1m20 0v510.1m14 0v-510.1m6 0v510.1m14 0v-510.1m9 0v510.1m9 0v-510.1m3 0v510.1m9 0v-510.1m3 0v510.1m2 0v-510.1m4 0v510.1m6 0v-510.1m20 0v510.1m3 0v-510.1m14 0v510.1m6 0v-510.1m9 0v510.1m2 0v-510.1m14 0v510.1m2 0v-510.1m6 0v510.1m9 0v-510.1m9 0v510.1m6 0v-510.1m3 0v510.1m3 0v-510.1m4 0v510.1m4 0v-510.1m2 0v510.1m4 0v-510.1m2 0v510.1m3 0v-510.1" stroke="#000" stroke-opacity=".36" stroke-width="2.4" fill="none"/><rect x="53" y="1221.6" width="698.8" height="11" fill="url(#yNt)"/><rect x="53" y="1232.6" width="698.8" height="29.4" fill="url(#yN1)"/><rect x="53" y="1262" width="698.8" height="38" fill="url(#yN1)"/><rect x="53" y="1300" width="698.8" height="52" fill="url(#yN2)"/><rect x="53" y="1352" width="698.8" height="5" fill="url(#yN1)"/><rect x="53" y="1357" width="698.8" height="59" fill="url(#yN2)"/><rect x="53" y="1416" width="698.8" height="21" fill="url(#yN2)"/><rect x="53" y="1437" width="698.8" height="16" fill="url(#yN2)"/><rect x="53" y="1453" width="698.8" height="32" fill="url(#yN1)"/><rect x="53" y="1485" width="698.8" height="15" fill="url(#yN2)"/><rect x="53" y="1500" width="698.8" height="15" fill="url(#yN2)"/><rect x="53" y="1515" width="698.8" height="5" fill="url(#yN2)"/><rect x="53" y="1520" width="698.8" height="4" fill="url(#yN1)"/><rect x="53" y="1524" width="698.8" height="17" fill="url(#yN2)"/><rect x="53" y="1541" width="698.8" height="26" fill="url(#yN1)"/><rect x="53" y="1567" width="698.8" height="50" fill="url(#yN2)"/><rect x="53" y="1617" width="698.8" height="27" fill="url(#yN1)"/><rect x="53" y="1644" width="698.8" height="18" fill="url(#yN1)"/><rect x="53" y="1662" width="698.8" height="80.7" fill="url(#yN1)"/><rect x="756.6" y="1221.6" width="481.2" height="521.1" fill="#190319"/><path d="M756.6 1222.6H1237.8m0 4H756.6m0 208.4H1237.8" stroke="#6e0a82" stroke-width="2" fill="none"/><rect x="756.6" y="1231.6" width="481.2" height="1" fill="#6e0a82"/><path d="M756.6 1224.6H1237.8" stroke="#6e0a8c" stroke-width="2" fill="none"/><path d="M756.6 1228.6H1237.8m0 260.4H756.6m0 18H1237.8m0 20H756.6m0 2H1237.8m0 2H756.6m0 2H1237.8" stroke="#5a0a6e" stroke-width="2" fill="none"/><path d="M756.6 1230.6H1237.8m0 11H756.6m0 4H1237.8m0 12H756.6m0 20H1237.8m0 15.4H756.6m0 16H1237.8m0 14H756.6m0 20H1237.8m0 26H756.6m0 6H1237.8m0 6H756.6m0 4H1237.8m0 16H756.6m0 4H1237.8m0 8H756.6m0 88H1237.8m0 36H756.6m0 33H1237.8m0 12H756.6m0 16H1237.8" stroke="#460a5a" stroke-width="2" fill="none"/><path d="M756.6 1233.6H1237.8m0 20H756.6m0 2H1237.8m0 10H756.6m0 6H1237.8m0 2H756.6m0 17.4H1237.8m0 6H756.6m0 143H1237.8m0 26H756.6m0 2H1237.8m0 197H756.6m0 22H1237.8m0 2H756.6m0 14H1237.8m0 12H756.6m0 6H1237.8m0 8H756.6m0 4H1237.8m0 8H756.6" stroke="#32003c" stroke-width="2" fill="none"/><path d="M756.6 1235.6H1237.8m0 2H756.6m0 6H1237.8m0 20H756.6m0 12H1237.8m0 8H756.6m0 19.4H1237.8m0 24H756.6m0 28H1237.8m0 22H756.6m0 10H1237.8m0 106H756.6m0 12H1237.8" stroke="#3c0a50" stroke-width="2" fill="none"/><rect x="756.6" y="1599" width="481.2" height="1" fill="#3c0a50"/><path d="M756.6 1239.6H1237.8m0 12H756.6m0 8H1237.8m0 2H756.6m0 18H1237.8m0 2H756.6m0 35.4H1237.8m0 8H756.6m0 8H1237.8m0 6H756.6m0 6H1237.8m0 20H756.6m0 2H1237.8m0 16H756.6m0 14H1237.8m0 10H756.6m0 2H1237.8m0 2H756.6m0 10H1237.8m0 33H756.6m0 24H1237.8m0 6H756.6m0 19H1237.8m0 12H756.6m0 20H1237.8m0 4H756.6m0 37H1237.8" stroke="#3c0a46" stroke-width="2" fill="none"/><rect x="756.6" y="1485" width="481.2" height="1" fill="#3c0a46"/><path d="M756.6 1247.6H1237.8m0 22H756.6m0 81.4H1237.8m0 97H756.6m0 8H1237.8m0 6H756.6m0 2H1237.8m0 6H756.6m0 51H1237.8m0 2H756.6m0 21H1237.8m0 2H756.6m0 2H1237.8m0 2H756.6m0 2H1237.8m0 2H756.6m0 2H1237.8m0 2H756.6m0 2H1237.8m0 2H756.6m0 2H1237.8m0 2H756.6m0 43H1237.8m0 20H756.6m0 4H1237.8m0 4H756.6m0 14H1237.8m0 10H756.6m0 2H1237.8m0 4H756.6m0 6H1237.8m0 2H756.6m0 2H1237.8m0 2H756.6m0 4H1237.8m0 14H756.6m0 22H1237.8m0 16H756.6m0 2H1237.8m0 2H756.6" stroke="#0a000a" stroke-width="2" fill="none"/><rect x="756.6" y="1288.6" width="481.2" height="1.4" fill="#0a000a"/><rect x="756.6" y="1742" width="481.2" height="0.7" fill="#0a000a"/><path d="M756.6 1249.6H1237.8m0 18H756.6m0 39.4H1237.8m0 6H756.6m0 2H1237.8m0 14H756.6m0 8H1237.8m0 4H756.6m0 22H1237.8m0 32H756.6m0 47H1237.8m0 32H756.6m0 6H1237.8m0 17H756.6m0 28H1237.8m0 53H756.6m0 18H1237.8" stroke="#460a50" stroke-width="2" fill="none"/><rect x="756.6" y="1542" width="481.2" height="1" fill="#460a50"/><path d="M756.6 1285.6H1237.8m0 2H756.6m0 33.4H1237.8m0 36H756.6m0 2H1237.8m0 12H756.6m0 18H1237.8m0 2H756.6m0 8H1237.8m0 53H756.6m0 8H1237.8m0 126H756.6m0 115H1237.8m0 26H756.6" stroke="#320a3c" stroke-width="2" fill="none"/><path d="M756.6 1295H1237.8m0 4H756.6m0 2H1237.8m0 4H756.6m0 6H1237.8m0 8H756.6m0 12H1237.8m0 4H756.6m0 12H1237.8m0 2H756.6m0 4H1237.8m0 8H756.6m0 32H1237.8m0 10H756.6m0 12H1237.8m0 2H756.6m0 6H1237.8m0 2H756.6m0 2H1237.8m0 11H756.6m0 6H1237.8m0 43H756.6m0 26H1237.8m0 55H756.6m0 20H1237.8m0 53H756.6m0 4H1237.8m0 2H756.6m0 22H1237.8m0 12H756.6m0 10H1237.8m0 2H756.6m0 2H1237.8m0 4H756.6m0 8H1237.8m0 2H756.6m0 4H1237.8" stroke="#500a64" stroke-width="2" fill="none"/><path d="M756.6 1373H1237.8m0 6H756.6m0 40H1237.8m0 12H756.6m0 15H1237.8m0 4H756.6m0 41H1237.8m0 50H756.6m0 51H1237.8" stroke="#500a5a" stroke-width="2" fill="none"/><rect x="756.6" y="1436" width="481.2" height="1" fill="#500a5a"/><path d="M756.6 1429H1237.8m0 143H756.6m0 2H1237.8m0 6H756.6m0 4H1237.8m0 10H756.6" stroke="#5a0a64" stroke-width="2" fill="none"/><path d="M756.6 1433H1237.8" stroke="#640a82" stroke-width="2" fill="none"/><path d="M756.6 1458H1237.8m0 149H756.6m0 8H1237.8m0 6H756.6m0 2H1237.8m0 4H756.6m0 4H1237.8m0 4H756.6m0 8H1237.8m0 6H756.6m0 4H1237.8m0 2H756.6m0 2H1237.8m0 14H756.6m0 14H1237.8m0 38H756.6" stroke="#280032" stroke-width="2" fill="none"/><path d="M756.6 1472H1237.8m0 4H756.6m0 6H1237.8m0 108H756.6" stroke="#320a46" stroke-width="2" fill="none"/><path d="M756.6 1495H1237.8m0 4H756.6m0 10H1237.8m0 2H756.6m0 6H1237.8m0 2H756.6" stroke="#640a78" stroke-width="2" fill="none"/><path d="M756.6 1601H1237.8m0 16H756.6m0 108H1237.8m0 6H756.6" stroke="#280028" stroke-width="2" fill="none"/><path d="M756.6 1603H1237.8m0 2H756.6m0 6H1237.8m0 2H756.6m0 6H1237.8m0 20H756.6m0 20H1237.8m0 46H756.6m0 6H1237.8" stroke="#1e0028" stroke-width="2" fill="none"/><path d="M756.6 1625H1237.8" stroke="#1e001e" stroke-width="2" fill="none"/><path d="M756.6 1717H1237.8" stroke="#320032" stroke-width="2" fill="none"/><path d="M776.6 1232.6v510.1m9 0v-510.1m9 0v510.1m20 0v-510.1m2 0v510.1m4 0v-510.1m2 0v510.1m20 0v-510.1m4 0v510.1m3 0v-510.1m20 0v510.1m3 0v-510.1m4 0v510.1m2 0v-510.1m6 0v510.1m20 0v-510.1m6 0v510.1m9 0v-510.1m4 0v510.1m6 0v-510.1m3 0v510.1m4 0v-510.1m4 0v510.1m9 0v-510.1m9 0v510.1m2 0v-510.1m14 0v510.1m9 0v-510.1m2 0v510.1m3 0v-510.1m20 0v510.1m3 0v-510.1m6 0v510.1m3 0v-510.1m9 0v510.1m6 0v-510.1m3 0v510.1m4 0v-510.1m4 0v510.1m14 0v-510.1m20 0v510.1m6 0v-510.1m2 0v510.1m9 0v-510.1m3 0v510.1m20 0v-510.1m14 0v510.1m3 0v-510.1m9 0v510.1m2 0v-510.1m14 0v510.1m3 0v-510.1m14 0v510.1m4 0v-510.1m2 0v510.1m2 0v-510.1m2 0v510.1m14 0v-510.1m20 0v510.1m2 0v-510.1m6 0v510.1" stroke="#000" stroke-opacity=".36" stroke-width="2.4" fill="none"/><rect x="756.6" y="1221.6" width="481.2" height="11" fill="url(#yE2)"/><rect x="756.6" y="1232.6" width="481.2" height="57.4" fill="url(#yE3)"/><rect x="756.6" y="1290" width="481.2" height="134" fill="url(#yE3)"/><rect x="756.6" y="1424" width="481.2" height="13" fill="url(#yE3)"/><rect x="756.6" y="1437" width="481.2" height="16" fill="url(#yE3)"/><rect x="756.6" y="1453" width="481.2" height="33" fill="url(#yE2)"/><rect x="756.6" y="1486" width="481.2" height="34" fill="url(#yE3)"/><rect x="756.6" y="1520" width="481.2" height="4" fill="url(#yE1)"/><rect x="756.6" y="1524" width="481.2" height="19" fill="url(#yE2)"/><rect x="756.6" y="1543" width="481.2" height="24" fill="url(#yN2)"/><rect x="756.6" y="1567" width="481.2" height="33" fill="url(#yE3)"/><rect x="756.6" y="1600" width="481.2" height="40" fill="url(#yE1)"/><rect x="756.6" y="1640" width="481.2" height="102.7" fill="url(#yE1)"/><rect x="1242.1" y="1221.6" width="64.8" height="521.1" fill="#190319"/><path d="M1242.1 1222.6H1306.9" stroke="#9614a0" stroke-width="2" fill="none"/><path d="M1242.1 1224.6H1306.9m0 2H1242.1" stroke="#820a8c" stroke-width="2" fill="none"/><path d="M1242.1 1228.6H1306.9m0 2H1242.1" stroke="#aa14aa" stroke-width="2" fill="none"/><rect x="1242.1" y="1231.6" width="64.8" height="1" fill="#c814c8"/><path d="M1242.1 1233.6H1306.9m0 4H1242.1m0 2H1306.9m0 2H1242.1" stroke="#140a14" stroke-width="2" fill="none"/><path d="M1242.1 1235.6H1306.9m0 10H1242.1" stroke="#140a0a" stroke-width="2" fill="none"/><path d="M1242.1 1243.6H1306.9m0 4H1242.1m0 43.4H1306.9m0 2H1242.1m0 18H1306.9m0 8H1242.1m0 28H1306.9m0 6H1242.1m0 2H1306.9m0 16H1242.1m0 12H1306.9m0 76H1242.1m0 34H1306.9m0 8H1242.1m0 26H1306.9m0 15H1242.1m0 2H1306.9m0 28H1242.1m0 12H1306.9m0 4H1242.1m0 49H1306.9m0 2H1242.1m0 2H1306.9m0 2H1242.1m0 2H1306.9m0 7H1242.1m0 4H1306.9m0 9H1242.1m0 26H1306.9m0 2H1242.1m0 8H1306.9m0 2H1242.1m0 4H1306.9m0 4H1242.1m0 28H1306.9m0 2H1242.1" stroke="#0a000a" stroke-width="2" fill="none"/><rect x="1242.1" y="1248.6" width="64.8" height="1.4" fill="#0a000a"/><rect x="1242.1" y="1545" width="64.8" height="1" fill="#0a000a"/><rect x="1242.1" y="1609" width="64.8" height="1" fill="#0a000a"/><rect x="1242.1" y="1646" width="64.8" height="1" fill="#0a000a"/><path d="M1242.1 1251H1306.9m0 32H1242.1m0 38H1306.9m0 30H1242.1m0 14H1306.9m0 38H1242.1m0 88H1306.9m0 30H1242.1" stroke="#5a5014" stroke-width="2" fill="none"/><rect x="1242.1" y="1424" width="64.8" height="1" fill="#5a5014"/><path d="M1242.1 1253H1306.9m0 12H1242.1m0 2H1306.9m0 2H1242.1m0 4H1306.9m0 30H1242.1m0 12H1306.9m0 2H1242.1m0 20H1306.9m0 6H1242.1m0 6H1306.9m0 10H1242.1m0 2H1306.9m0 2H1242.1m0 22H1306.9m0 2H1242.1m0 2H1306.9m0 8H1242.1m0 12H1306.9m0 4H1242.1m0 2H1306.9m0 22H1242.1m0 2H1306.9m0 2H1242.1m0 16H1306.9m0 6H1242.1m0 8H1306.9m0 6H1242.1m0 4H1306.9m0 2H1242.1m0 14H1306.9m0 16H1242.1m0 69H1306.9m0 10H1242.1m0 2H1306.9m0 4H1242.1m0 6H1306.9m0 2H1242.1" stroke="#3c3c0a" stroke-width="2" fill="none"/><rect x="1242.1" y="1661" width="64.8" height="1" fill="#3c3c0a"/><path d="M1242.1 1255H1306.9m0 26H1242.1m0 4H1306.9m0 4H1242.1m0 6H1306.9m0 4H1242.1m0 24H1306.9m0 2H1242.1m0 2H1306.9m0 2H1242.1m0 2H1306.9m0 10H1242.1m0 16H1306.9m0 12H1242.1m0 4H1306.9m0 2H1242.1m0 2H1306.9m0 14H1242.1m0 20H1306.9m0 8H1242.1m0 4H1306.9m0 20H1242.1m0 2H1306.9m0 8H1242.1m0 2H1306.9m0 14H1242.1m0 16H1306.9m0 10H1242.1m0 4H1306.9m0 4H1242.1m0 8H1306.9m0 57H1242.1m0 2H1306.9m0 6H1242.1m0 2H1306.9m0 22H1242.1" stroke="#505014" stroke-width="2" fill="none"/><path d="M1242.1 1257H1306.9m0 4H1242.1m0 14H1306.9m0 12H1242.1m0 14H1306.9m0 6H1242.1m0 6H1306.9m0 20H1242.1m0 34H1306.9m0 14H1242.1m0 14H1306.9m0 6H1242.1m0 4H1306.9m0 12H1242.1m0 30H1306.9m0 2H1242.1m0 12H1306.9m0 6H1242.1m0 8H1306.9m0 32H1242.1m0 8H1306.9m0 2H1242.1m0 69H1306.9m0 4H1242.1m0 70H1306.9" stroke="#46460a" stroke-width="2" fill="none"/><path d="M1242.1 1259H1306.9m0 12H1242.1m0 26H1306.9m0 8H1242.1m0 30H1306.9m0 4H1242.1m0 6H1306.9m0 62H1242.1m0 14H1306.9m0 30H1242.1m0 22H1306.9m0 14H1242.1m0 22H1306.9m0 71H1242.1m0 28H1306.9m0 50H1242.1" stroke="#32320a" stroke-width="2" fill="none"/><path d="M1242.1 1263H1306.9m0 14H1242.1m0 32H1306.9m0 180H1242.1m0 16H1306.9m0 14H1242.1m0 55H1306.9m0 28H1242.1m0 52H1306.9" stroke="#463c0a" stroke-width="2" fill="none"/><path d="M1242.1 1279H1306.9m0 100H1242.1m0 14H1306.9m0 6H1242.1m0 197H1306.9m0 52H1242.1m0 2H1306.9" stroke="#504614" stroke-width="2" fill="none"/><path d="M1242.1 1426H1306.9" stroke="#501450" stroke-width="2" fill="none"/><path d="M1242.1 1428H1306.9m0 2H1242.1" stroke="#641e64" stroke-width="2" fill="none"/><path d="M1242.1 1432H1306.9" stroke="#641464" stroke-width="2" fill="none"/><rect x="1242.1" y="1435" width="64.8" height="1" fill="#641464"/><path d="M1242.1 1434H1306.9" stroke="#6e1e6e" stroke-width="2" fill="none"/><path d="M1242.1 1465H1306.9m0 14H1242.1" stroke="#3c320a" stroke-width="2" fill="none"/><path d="M1242.1 1523H1306.9" stroke="#3c281e" stroke-width="2" fill="none"/><path d="M1242.1 1525H1306.9m0 4H1242.1m0 2H1306.9" stroke="#5a3228" stroke-width="2" fill="none"/><rect x="1242.1" y="1540" width="64.8" height="1" fill="#5a3228"/><path d="M1242.1 1533H1306.9m0 6H1242.1" stroke="#503228" stroke-width="2" fill="none"/><path d="M1242.1 1535H1306.9m0 2H1242.1m0 80H1306.9m0 18H1242.1" stroke="#643c32" stroke-width="2" fill="none"/><path d="M1242.1 1547H1306.9m0 10H1242.1" stroke="#6e3232" stroke-width="2" fill="none"/><path d="M1242.1 1549H1306.9" stroke="#964646" stroke-width="2" fill="none"/><rect x="1242.1" y="1566" width="64.8" height="1" fill="#964646"/><path d="M1242.1 1551H1306.9" stroke="#8c4646" stroke-width="2" fill="none"/><path d="M1242.1 1553H1306.9m0 8H1242.1m0 4H1306.9m0 68H1242.1" stroke="#6e3c3c" stroke-width="2" fill="none"/><path d="M1242.1 1555H1306.9m0 8H1242.1" stroke="#824646" stroke-width="2" fill="none"/><path d="M1242.1 1559H1306.9" stroke="#643232" stroke-width="2" fill="none"/><path d="M1242.1 1611H1306.9" stroke="#78463c" stroke-width="2" fill="none"/><path d="M1242.1 1613H1306.9" stroke="#965046" stroke-width="2" fill="none"/><path d="M1242.1 1615H1306.9m0 4H1242.1m0 4H1306.9" stroke="#82463c" stroke-width="2" fill="none"/><path d="M1242.1 1621H1306.9" stroke="#8c5046" stroke-width="2" fill="none"/><path d="M1242.1 1625H1306.9" stroke="#783c3c" stroke-width="2" fill="none"/><path d="M1242.1 1627H1306.9" stroke="#5a3232" stroke-width="2" fill="none"/><path d="M1242.1 1629H1306.9m0 2H1242.1" stroke="#6e3c32" stroke-width="2" fill="none"/><path d="M1242.1 1663H1306.9m0 4H1242.1m0 4H1306.9m0 26H1242.1m0 24H1306.9m0 14H1242.1" stroke="#501e46" stroke-width="2" fill="none"/><rect x="1242.1" y="1742" width="64.8" height="0.7" fill="#501e46"/><path d="M1242.1 1669H1306.9m0 6H1242.1m0 6H1306.9m0 32H1242.1m0 2H1306.9m0 10H1242.1" stroke="#321e14" stroke-width="2" fill="none"/><path d="M1242.1 1673H1306.9m0 4H1242.1m0 6H1306.9m0 2H1242.1m0 10H1306.9m0 10H1242.1m0 4H1306.9m0 10H1242.1m0 4H1306.9m0 8H1242.1m0 2H1306.9m0 4H1242.1" stroke="#281e14" stroke-width="2" fill="none"/><path d="M1242.1 1679H1306.9m0 8H1242.1m0 2H1306.9m0 38H1242.1" stroke="#32281e" stroke-width="2" fill="none"/><path d="M1242.1 1699H1306.9m0 30H1242.1" stroke="#281414" stroke-width="2" fill="none"/><path d="M1242.1 1717H1306.9" stroke="#321e1e" stroke-width="2" fill="none"/><rect x="1242.1" y="1221.6" width="64.8" height="11" fill="url(#mR1)"/><rect x="1242.1" y="1232.6" width="64.8" height="17.4" fill="url(#yR1)"/><rect x="1242.1" y="1250" width="64.8" height="40" fill="url(#kR2)"/><rect x="1242.1" y="1250" width="64.8" height="40" fill="url(#mR1)"/><rect x="1242.1" y="1250" width="64.8" height="40" fill="url(#yR1)"/><rect x="1242.1" y="1290" width="64.8" height="4" fill="url(#yR1)"/><rect x="1242.1" y="1294" width="64.8" height="58" fill="url(#kR2)"/><rect x="1242.1" y="1294" width="64.8" height="58" fill="url(#mR1)"/><rect x="1242.1" y="1294" width="64.8" height="58" fill="url(#yR1)"/><rect x="1242.1" y="1352" width="64.8" height="4" fill="url(#yR1)"/><rect x="1242.1" y="1356" width="64.8" height="69" fill="url(#kR2)"/><rect x="1242.1" y="1356" width="64.8" height="69" fill="url(#mR1)"/><rect x="1242.1" y="1356" width="64.8" height="69" fill="url(#yR1)"/><rect x="1242.1" y="1425" width="64.8" height="11" fill="url(#kR2)"/><rect x="1242.1" y="1425" width="64.8" height="11" fill="url(#mR1)"/><rect x="1242.1" y="1425" width="64.8" height="11" fill="url(#yR1)"/><rect x="1242.1" y="1436" width="64.8" height="44" fill="url(#kR2)"/><rect x="1242.1" y="1436" width="64.8" height="44" fill="url(#mR1)"/><rect x="1242.1" y="1436" width="64.8" height="44" fill="url(#yR1)"/><rect x="1242.1" y="1480" width="64.8" height="42" fill="url(#kR1)"/><rect x="1242.1" y="1480" width="64.8" height="42" fill="url(#mR1)"/><rect x="1242.1" y="1480" width="64.8" height="42" fill="url(#yR2)"/><rect x="1242.1" y="1522" width="64.8" height="19" fill="url(#kR2)"/><rect x="1242.1" y="1522" width="64.8" height="19" fill="url(#mR2)"/><rect x="1242.1" y="1522" width="64.8" height="19" fill="url(#yR1)"/><rect x="1242.1" y="1541" width="64.8" height="5" fill="url(#yR1)"/><rect x="1242.1" y="1546" width="64.8" height="21" fill="url(#kR1)"/><rect x="1242.1" y="1546" width="64.8" height="21" fill="url(#mR2)"/><rect x="1242.1" y="1546" width="64.8" height="21" fill="url(#yR2)"/><rect x="1242.1" y="1567" width="64.8" height="43" fill="url(#kR2)"/><rect x="1242.1" y="1567" width="64.8" height="43" fill="url(#mR1)"/><rect x="1242.1" y="1567" width="64.8" height="43" fill="url(#yR1)"/><rect x="1242.1" y="1610" width="64.8" height="26" fill="url(#kR1)"/><rect x="1242.1" y="1610" width="64.8" height="26" fill="url(#mR2)"/><rect x="1242.1" y="1610" width="64.8" height="26" fill="url(#yR2)"/><rect x="1242.1" y="1636" width="64.8" height="11" fill="url(#yR1)"/><rect x="1242.1" y="1647" width="64.8" height="15" fill="url(#kR2)"/><rect x="1242.1" y="1647" width="64.8" height="15" fill="url(#mR1)"/><rect x="1242.1" y="1647" width="64.8" height="15" fill="url(#yR1)"/><rect x="1242.1" y="1662" width="64.8" height="80.7" fill="url(#mR1)"/><rect x="1242.1" y="1662" width="64.8" height="80.7" fill="url(#yR2)"/><rect x="1242.1" y="1662" width="64.8" height="80.7" fill="url(#yR1)"/><rect x="1311.1" y="1221.6" width="149.7" height="521.1" fill="#190319"/><path d="M1311.1 1222.6H1460.8" stroke="#aa14aa" stroke-width="2" fill="none"/><path d="M1311.1 1224.6H1460.8m0 2H1311.1" stroke="#820a82" stroke-width="2" fill="none"/><path d="M1311.1 1228.6H1460.8" stroke="#820a8c" stroke-width="2" fill="none"/><path d="M1311.1 1230.6H1460.8" stroke="#be14be" stroke-width="2" fill="none"/><rect x="1311.1" y="1231.6" width="149.7" height="1" fill="#8c0a8c"/><path d="M1311.1 1233.6H1460.8" stroke="#140a14" stroke-width="2" fill="none"/><rect x="1311.1" y="1238.6" width="149.7" height="1.4" fill="#140a14"/><path d="M1311.1 1235.6H1460.8m0 2H1311.1m0 23.4H1460.8m0 12H1311.1m0 4H1460.8m0 14H1311.1m0 2H1460.8m0 26H1311.1m0 2H1460.8m0 4H1311.1m0 26H1460.8m0 2H1311.1m0 2H1460.8m0 6H1311.1m0 42H1460.8m0 46H1311.1m0 16H1460.8m0 12H1311.1m0 26H1460.8m0 20H1311.1m0 19H1460.8m0 2H1311.1m0 93H1460.8m0 2H1311.1m0 2H1460.8m0 2H1311.1m0 2H1460.8m0 3H1311.1m0 8H1460.8m0 7H1311.1m0 6H1460.8m0 12H1311.1m0 8H1460.8m0 12H1311.1m0 24H1460.8m0 8H1311.1m0 8H1460.8" stroke="#0a000a" stroke-width="2" fill="none"/><rect x="1311.1" y="1545" width="149.7" height="1" fill="#0a000a"/><rect x="1311.1" y="1646" width="149.7" height="1" fill="#0a000a"/><path d="M1311.1 1241H1460.8m0 2H1311.1m0 36H1460.8m0 66H1311.1m0 20H1460.8m0 114H1311.1" stroke="#786e14" stroke-width="2" fill="none"/><path d="M1311.1 1245H1460.8m0 146H1311.1" stroke="#645a0a" stroke-width="2" fill="none"/><path d="M1311.1 1247H1460.8m0 6H1311.1m0 36H1460.8m0 6H1311.1m0 38H1460.8m0 8H1311.1m0 22H1460.8m0 4H1311.1m0 2H1460.8m0 14H1311.1m0 80H1460.8m0 6H1311.1m0 4H1460.8m0 8H1311.1m0 12H1460.8m0 2H1311.1m0 10H1460.8m0 12H1311.1m0 63H1460.8m0 4H1311.1m0 12H1460.8" stroke="#787814" stroke-width="2" fill="none"/><rect x="1311.1" y="1609" width="149.7" height="1" fill="#787814"/><path d="M1311.1 1249H1460.8m0 136H1311.1m0 60H1460.8m0 8H1311.1m0 58H1460.8m0 75H1311.1" stroke="#6e6e0a" stroke-width="2" fill="none"/><path d="M1311.1 1251H1460.8m0 6H1311.1m0 80H1460.8m0 82H1311.1m0 20H1460.8m0 2H1311.1m0 46H1460.8m0 89H1311.1m0 18H1460.8m0 10H1311.1" stroke="#6e6e14" stroke-width="2" fill="none"/><path d="M1311.1 1255H1460.8m0 10H1311.1m0 10H1460.8m0 6H1311.1m0 2H1460.8m0 20H1311.1m0 4H1460.8m0 2H1311.1m0 26H1460.8m0 12H1311.1m0 2H1460.8m0 8H1311.1m0 14H1460.8m0 6H1311.1m0 36H1460.8m0 24H1311.1m0 64H1460.8m0 6H1311.1m0 6H1460.8m0 75H1311.1m0 2H1460.8m0 8H1311.1m0 54H1460.8m0 2H1311.1" stroke="#50500a" stroke-width="2" fill="none"/><rect x="1311.1" y="1661" width="149.7" height="1" fill="#50500a"/><path d="M1311.1 1259H1460.8m0 28H1311.1m0 18H1460.8m0 8H1311.1m0 4H1460.8m0 6H1311.1m0 6H1460.8m0 10H1311.1m0 36H1460.8m0 4H1311.1m0 8H1460.8m0 2H1311.1m0 4H1460.8m0 4H1311.1m0 12H1460.8m0 2H1311.1m0 6H1460.8m0 4H1311.1m0 38H1460.8m0 26H1311.1m0 30H1460.8m0 4H1311.1m0 55H1460.8m0 76H1311.1m0 8H1460.8m0 2H1311.1" stroke="#5a5a0a" stroke-width="2" fill="none"/><rect x="1311.1" y="1424" width="149.7" height="1" fill="#5a5a0a"/><path d="M1311.1 1263H1460.8m0 160H1311.1m0 48H1460.8m0 26H1311.1" stroke="#827814" stroke-width="2" fill="none"/><path d="M1311.1 1267H1460.8m0 2H1311.1m0 16H1460.8m0 12H1311.1m0 18H1460.8m0 12H1311.1m0 4H1460.8m0 12H1311.1m0 30H1460.8m0 8H1311.1m0 20H1460.8m0 4H1311.1m0 10H1460.8m0 28H1311.1m0 4H1460.8m0 4H1311.1m0 16H1460.8m0 24H1311.1m0 18H1460.8m0 12H1311.1m0 47H1460.8m0 2H1311.1m0 2H1460.8m0 6H1311.1m0 4H1460.8m0 10H1311.1m0 8H1460.8m0 2H1311.1" stroke="#64640a" stroke-width="2" fill="none"/><path d="M1311.1 1271H1460.8m0 88H1311.1m0 98H1460.8m0 4H1311.1m0 14H1460.8m0 131H1311.1m0 2H1460.8" stroke="#828214" stroke-width="2" fill="none"/><path d="M1311.1 1299H1460.8m0 96H1311.1m0 12H1460.8m0 76H1311.1m0 6H1460.8" stroke="#6e640a" stroke-width="2" fill="none"/><path d="M1311.1 1301H1460.8m0 10H1311.1m0 88H1460.8m0 56H1311.1m0 44H1460.8" stroke="#5a500a" stroke-width="2" fill="none"/><path d="M1311.1 1426H1460.8" stroke="#781e78" stroke-width="2" fill="none"/><path d="M1311.1 1428H1460.8m0 2H1311.1m0 2H1460.8" stroke="#641e64" stroke-width="2" fill="none"/><path d="M1311.1 1434H1460.8" stroke="#6e1e6e" stroke-width="2" fill="none"/><rect x="1311.1" y="1435" width="149.7" height="1" fill="#641464"/><path d="M1311.1 1525H1460.8m0 8H1311.1" stroke="#503228" stroke-width="2" fill="none"/><path d="M1311.1 1527H1460.8" stroke="#462828" stroke-width="2" fill="none"/><path d="M1311.1 1529H1460.8m0 8H1311.1m0 98H1460.8" stroke="#5a3228" stroke-width="2" fill="none"/><rect x="1311.1" y="1540" width="149.7" height="1" fill="#5a3228"/><path d="M1311.1 1531H1460.8m0 4H1311.1m0 4H1460.8" stroke="#46281e" stroke-width="2" fill="none"/><path d="M1311.1 1547H1460.8m0 10H1311.1m0 64H1460.8m0 12H1311.1" stroke="#643232" stroke-width="2" fill="none"/><path d="M1311.1 1549H1460.8m0 4H1311.1" stroke="#783c3c" stroke-width="2" fill="none"/><path d="M1311.1 1551H1460.8m0 4H1311.1m0 60H1460.8" stroke="#6e3c3c" stroke-width="2" fill="none"/><path d="M1311.1 1559H1460.8m0 2H1311.1" stroke="#6e3232" stroke-width="2" fill="none"/><path d="M1311.1 1563H1460.8m0 60H1311.1" stroke="#824646" stroke-width="2" fill="none"/><rect x="1311.1" y="1566" width="149.7" height="1" fill="#824646"/><path d="M1311.1 1565H1460.8" stroke="#964646" stroke-width="2" fill="none"/><path d="M1311.1 1611H1460.8m0 16H1311.1m0 4H1460.8" stroke="#82463c" stroke-width="2" fill="none"/><path d="M1311.1 1613H1460.8" stroke="#5a3232" stroke-width="2" fill="none"/><path d="M1311.1 1617H1460.8m0 2H1311.1m0 6H1460.8" stroke="#643c32" stroke-width="2" fill="none"/><path d="M1311.1 1629H1460.8" stroke="#6e3c32" stroke-width="2" fill="none"/><path d="M1311.1 1665H1460.8m0 10H1311.1m0 8H1460.8m0 10H1311.1m0 12H1460.8m0 24H1311.1" stroke="#321e14" stroke-width="2" fill="none"/><path d="M1311.1 1667H1460.8m0 10H1311.1m0 30H1460.8" stroke="#32281e" stroke-width="2" fill="none"/><rect x="1311.1" y="1742" width="149.7" height="0.7" fill="#32281e"/><path d="M1311.1 1671H1460.8m0 14H1311.1" stroke="#281414" stroke-width="2" fill="none"/><path d="M1311.1 1673H1460.8m0 30H1311.1m0 6H1460.8m0 2H1311.1m0 4H1460.8m0 4H1311.1m0 4H1460.8m0 8H1311.1m0 4H1460.8m0 2H1311.1m0 2H1460.8" stroke="#281e14" stroke-width="2" fill="none"/><path d="M1311.1 1679H1460.8m0 8H1311.1m0 8H1460.8m0 2H1311.1m0 30H1460.8" stroke="#1e1414" stroke-width="2" fill="none"/><path d="M1311.1 1691H1460.8m0 8H1311.1m0 14H1460.8m0 4H1311.1m0 4H1460.8" stroke="#501e46" stroke-width="2" fill="none"/><rect x="1311.1" y="1221.6" width="149.7" height="11" fill="url(#mR1)"/><rect x="1311.1" y="1232.6" width="149.7" height="7.4" fill="url(#yR1)"/><rect x="1311.1" y="1240" width="149.7" height="50" fill="url(#kR1)"/><rect x="1311.1" y="1240" width="149.7" height="50" fill="url(#mR1)"/><rect x="1311.1" y="1240" width="149.7" height="50" fill="url(#yR1)"/><rect x="1311.1" y="1290" width="149.7" height="4" fill="url(#yR1)"/><rect x="1311.1" y="1294" width="149.7" height="58" fill="url(#kR1)"/><rect x="1311.1" y="1294" width="149.7" height="58" fill="url(#mR1)"/><rect x="1311.1" y="1294" width="149.7" height="58" fill="url(#yR1)"/><rect x="1311.1" y="1352" width="149.7" height="4" fill="url(#yR1)"/><rect x="1311.1" y="1356" width="149.7" height="69" fill="url(#kR1)"/><rect x="1311.1" y="1356" width="149.7" height="69" fill="url(#mR1)"/><rect x="1311.1" y="1356" width="149.7" height="69" fill="url(#yR1)"/><rect x="1311.1" y="1425" width="149.7" height="11" fill="url(#kR1)"/><rect x="1311.1" y="1425" width="149.7" height="11" fill="url(#mR1)"/><rect x="1311.1" y="1425" width="149.7" height="11" fill="url(#yR1)"/><rect x="1311.1" y="1436" width="149.7" height="44" fill="url(#kR1)"/><rect x="1311.1" y="1436" width="149.7" height="44" fill="url(#mR1)"/><rect x="1311.1" y="1436" width="149.7" height="44" fill="url(#yR1)"/><rect x="1311.1" y="1480" width="149.7" height="42" fill="url(#kR1)"/><rect x="1311.1" y="1480" width="149.7" height="42" fill="url(#mR1)"/><rect x="1311.1" y="1480" width="149.7" height="42" fill="url(#yR2)"/><rect x="1311.1" y="1522" width="149.7" height="19" fill="url(#kR1)"/><rect x="1311.1" y="1522" width="149.7" height="19" fill="url(#mR2)"/><rect x="1311.1" y="1522" width="149.7" height="19" fill="url(#yR1)"/><rect x="1311.1" y="1541" width="149.7" height="5" fill="url(#yR1)"/><rect x="1311.1" y="1546" width="149.7" height="21" fill="url(#kR1)"/><rect x="1311.1" y="1546" width="149.7" height="21" fill="url(#mR2)"/><rect x="1311.1" y="1546" width="149.7" height="21" fill="url(#yR2)"/><rect x="1311.1" y="1567" width="149.7" height="43" fill="url(#kR1)"/><rect x="1311.1" y="1567" width="149.7" height="43" fill="url(#mR1)"/><rect x="1311.1" y="1567" width="149.7" height="43" fill="url(#yR1)"/><rect x="1311.1" y="1610" width="149.7" height="26" fill="url(#kR1)"/><rect x="1311.1" y="1610" width="149.7" height="26" fill="url(#mR2)"/><rect x="1311.1" y="1610" width="149.7" height="26" fill="url(#yR2)"/><rect x="1311.1" y="1636" width="149.7" height="11" fill="url(#yR1)"/><rect x="1311.1" y="1647" width="149.7" height="15" fill="url(#kR1)"/><rect x="1311.1" y="1647" width="149.7" height="15" fill="url(#mR1)"/><rect x="1311.1" y="1647" width="149.7" height="15" fill="url(#yR1)"/><rect x="1311.1" y="1662" width="149.7" height="80.7" fill="url(#mR1)"/><rect x="1311.1" y="1662" width="149.7" height="80.7" fill="url(#yR2)"/><rect x="1311.1" y="1662" width="149.7" height="80.7" fill="url(#yR1)"/><rect x="1465.1" y="1221.6" width="21.9" height="521.1" fill="#190319"/><path d="M1465.1 1222.6H1487m0 6H1465.1" stroke="#aa14b4" stroke-width="2" fill="none"/><path d="M1465.1 1224.6H1487m0 2H1465.1" stroke="#9614a0" stroke-width="2" fill="none"/><path d="M1465.1 1230.6H1487" stroke="#961496" stroke-width="2" fill="none"/><rect x="1465.1" y="1231.6" width="21.9" height="1" fill="#aa14aa"/><path d="M1465.1 1233.6H1487m0 14H1465.1" stroke="#140a0a" stroke-width="2" fill="none"/><path d="M1465.1 1235.6H1487m0 2H1465.1m0 2H1487m0 6H1465.1m0 17.4H1487m0 28H1465.1m0 2H1487m0 10H1465.1m0 34H1487m0 16H1465.1m0 2H1487m0 52H1465.1m0 50H1487m0 18H1465.1m0 4H1487m0 6H1465.1m0 8H1487m0 49H1465.1m0 2H1487m0 93H1465.1m0 2H1487m0 2H1465.1m0 2H1487m0 2H1465.1m0 18H1487m0 42H1465.1m0 2H1487m0 14H1465.1m0 18H1487" stroke="#0a000a" stroke-width="2" fill="none"/><rect x="1465.1" y="1424" width="21.9" height="1" fill="#0a000a"/><rect x="1465.1" y="1545" width="21.9" height="1" fill="#0a000a"/><rect x="1465.1" y="1646" width="21.9" height="1" fill="#0a000a"/><path d="M1465.1 1241.6H1487m0 2H1465.1" stroke="#140a14" stroke-width="2" fill="none"/><rect x="1465.1" y="1248.6" width="21.9" height="1.4" fill="#140a14"/><path d="M1465.1 1251H1487m0 30H1465.1m0 14H1487m0 22H1465.1m0 2H1487m0 6H1465.1m0 4H1487m0 2H1465.1m0 4H1487m0 16H1465.1m0 14H1487m0 10H1465.1m0 6H1487m0 4H1465.1m0 2H1487m0 4H1465.1m0 14H1487m0 4H1465.1m0 2H1487m0 8H1465.1m0 24H1487m0 2H1465.1m0 2H1487m0 12H1465.1m0 40H1487m0 4H1465.1m0 6H1487m0 2H1465.1m0 2H1487m0 4H1465.1m0 2H1487m0 2H1465.1m0 47H1487m0 12H1465.1m0 4H1487m0 16H1465.1m0 2H1487m0 46H1465.1m0 4H1487m0 4H1465.1m0 2H1487" stroke="#46460a" stroke-width="2" fill="none"/><rect x="1465.1" y="1661" width="21.9" height="1" fill="#46460a"/><path d="M1465.1 1253H1487m0 12H1465.1m0 20H1487m0 24H1465.1m0 2H1487m0 2H1465.1m0 20H1487m0 16H1465.1m0 12H1487m0 16H1465.1m0 2H1487m0 18H1465.1m0 40H1487m0 2H1465.1m0 26H1487m0 16H1465.1m0 6H1487m0 4H1465.1m0 4H1487m0 2H1465.1m0 10H1487m0 8H1465.1m0 55H1487m0 2H1465.1m0 24H1487m0 54H1465.1" stroke="#5a5a14" stroke-width="2" fill="none"/><path d="M1465.1 1255H1487m0 2H1465.1m0 10H1487m0 6H1465.1m0 10H1487m0 6H1465.1m0 74H1487m0 6H1465.1m0 14H1487m0 38H1465.1m0 20H1487m0 10H1465.1m0 16H1487m0 16H1465.1m0 18H1487m0 75H1465.1m0 6H1487m0 10H1465.1m0 2H1487" stroke="#3c3c0a" stroke-width="2" fill="none"/><path d="M1465.1 1259H1487m0 10H1465.1m0 6H1487m0 4H1465.1m0 8H1487m0 10H1465.1m0 4H1487m0 14H1465.1m0 6H1487m0 2H1465.1m0 4H1487m0 14H1465.1m0 2H1487m0 4H1465.1m0 10H1487m0 10H1465.1m0 4H1487m0 18H1465.1m0 4H1487m0 6H1465.1m0 2H1487m0 16H1465.1m0 36H1487m0 2H1465.1m0 14H1487m0 2H1465.1m0 18H1487m0 16H1465.1m0 69H1487m0 12H1465.1m0 2H1487m0 2H1465.1m0 8H1487m0 8H1465.1m0 2H1487" stroke="#50500a" stroke-width="2" fill="none"/><path d="M1465.1 1261H1487" stroke="#5a500a" stroke-width="2" fill="none"/><path d="M1465.1 1271H1487m0 144H1465.1m0 46H1487m0 2H1465.1m0 10H1487m0 4H1465.1m0 101H1487m0 26H1465.1m0 50H1487" stroke="#646414" stroke-width="2" fill="none"/><rect x="1465.1" y="1609" width="21.9" height="1" fill="#646414"/><path d="M1465.1 1277H1487m0 28H1465.1m0 34H1487m0 74H1465.1m0 36H1487" stroke="#50460a" stroke-width="2" fill="none"/><path d="M1465.1 1299H1487m0 60H1465.1m0 36H1487m0 265H1465.1" stroke="#463c0a" stroke-width="2" fill="none"/><path d="M1465.1 1307H1487m0 38H1465.1m0 28H1487m0 30H1465.1" stroke="#645a14" stroke-width="2" fill="none"/><path d="M1465.1 1423H1487" stroke="#5a5014" stroke-width="2" fill="none"/><path d="M1465.1 1426H1487m0 2H1465.1m0 6H1487" stroke="#501450" stroke-width="2" fill="none"/><path d="M1465.1 1430H1487" stroke="#5a145a" stroke-width="2" fill="none"/><path d="M1465.1 1432H1487" stroke="#461446" stroke-width="2" fill="none"/><rect x="1465.1" y="1435" width="21.9" height="1" fill="#641464"/><path d="M1465.1 1523H1487m0 8H1465.1m0 2H1487" stroke="#46281e" stroke-width="2" fill="none"/><path d="M1465.1 1525H1487m0 10H1465.1m0 2H1487" stroke="#503228" stroke-width="2" fill="none"/><rect x="1465.1" y="1540" width="21.9" height="1" fill="#503228"/><path d="M1465.1 1527H1487" stroke="#5a3c28" stroke-width="2" fill="none"/><path d="M1465.1 1529H1487m0 10H1465.1m0 86H1487" stroke="#643c32" stroke-width="2" fill="none"/><path d="M1465.1 1547H1487m0 6H1465.1m0 8H1487" stroke="#8c4646" stroke-width="2" fill="none"/><path d="M1465.1 1549H1487" stroke="#6e3232" stroke-width="2" fill="none"/><path d="M1465.1 1551H1487" stroke="#824646" stroke-width="2" fill="none"/><rect x="1465.1" y="1566" width="21.9" height="1" fill="#824646"/><path d="M1465.1 1555H1487" stroke="#783c3c" stroke-width="2" fill="none"/><path d="M1465.1 1557H1487" stroke="#5a3232" stroke-width="2" fill="none"/><path d="M1465.1 1559H1487m0 56H1465.1" stroke="#643232" stroke-width="2" fill="none"/><path d="M1465.1 1563H1487m0 2H1465.1" stroke="#964646" stroke-width="2" fill="none"/><path d="M1465.1 1611H1487m0 8H1465.1" stroke="#5a3228" stroke-width="2" fill="none"/><path d="M1465.1 1613H1487" stroke="#6e3c3c" stroke-width="2" fill="none"/><path d="M1465.1 1617H1487m0 6H1465.1m0 10H1487" stroke="#82463c" stroke-width="2" fill="none"/><path d="M1465.1 1621H1487" stroke="#8c5046" stroke-width="2" fill="none"/><path d="M1465.1 1627H1487m0 2H1465.1m0 2H1487m0 4H1465.1" stroke="#6e3c32" stroke-width="2" fill="none"/><path d="M1465.1 1665H1487m0 2H1465.1m0 2H1487m0 4H1465.1m0 6H1487m0 8H1465.1m0 6H1487m0 4H1465.1m0 2H1487m0 2H1465.1m0 16H1487m0 2H1465.1m0 6H1487" stroke="#281e14" stroke-width="2" fill="none"/><path d="M1465.1 1671H1487m0 6H1465.1m0 8H1487m0 38H1465.1m0 8H1487" stroke="#1e1414" stroke-width="2" fill="none"/><path d="M1465.1 1675H1487m0 20H1465.1m0 32H1487m0 14H1465.1" stroke="#321e14" stroke-width="2" fill="none"/><rect x="1465.1" y="1742" width="21.9" height="0.7" fill="#321e14"/><path d="M1465.1 1681H1487m0 30H1465.1m0 18H1487m0 6H1465.1" stroke="#32281e" stroke-width="2" fill="none"/><path d="M1465.1 1683H1487m0 8H1465.1m0 12H1487m0 34H1465.1" stroke="#501e46" stroke-width="2" fill="none"/><path d="M1465.1 1689H1487m0 20H1465.1m0 4H1487m0 2H1465.1" stroke="#321e1e" stroke-width="2" fill="none"/><path d="M1465.1 1733H1487" stroke="#281414" stroke-width="2" fill="none"/><rect x="1465.1" y="1221.6" width="21.9" height="11" fill="url(#mR1)"/><rect x="1465.1" y="1232.6" width="21.9" height="17.4" fill="url(#yR1)"/><rect x="1465.1" y="1250" width="21.9" height="40" fill="url(#kR2)"/><rect x="1465.1" y="1250" width="21.9" height="40" fill="url(#mR1)"/><rect x="1465.1" y="1250" width="21.9" height="40" fill="url(#yR1)"/><rect x="1465.1" y="1290" width="21.9" height="4" fill="url(#yR1)"/><rect x="1465.1" y="1294" width="21.9" height="58" fill="url(#kR2)"/><rect x="1465.1" y="1294" width="21.9" height="58" fill="url(#mR1)"/><rect x="1465.1" y="1294" width="21.9" height="58" fill="url(#yR1)"/><rect x="1465.1" y="1352" width="21.9" height="4" fill="url(#yR1)"/><rect x="1465.1" y="1356" width="21.9" height="69" fill="url(#kR2)"/><rect x="1465.1" y="1356" width="21.9" height="69" fill="url(#mR1)"/><rect x="1465.1" y="1356" width="21.9" height="69" fill="url(#yR1)"/><rect x="1465.1" y="1425" width="21.9" height="11" fill="url(#kR2)"/><rect x="1465.1" y="1425" width="21.9" height="11" fill="url(#mR1)"/><rect x="1465.1" y="1425" width="21.9" height="11" fill="url(#yR1)"/><rect x="1465.1" y="1436" width="21.9" height="44" fill="url(#kR2)"/><rect x="1465.1" y="1436" width="21.9" height="44" fill="url(#mR1)"/><rect x="1465.1" y="1436" width="21.9" height="44" fill="url(#yR1)"/><rect x="1465.1" y="1480" width="21.9" height="42" fill="url(#kR1)"/><rect x="1465.1" y="1480" width="21.9" height="42" fill="url(#mR1)"/><rect x="1465.1" y="1480" width="21.9" height="42" fill="url(#yR2)"/><rect x="1465.1" y="1522" width="21.9" height="19" fill="url(#kR2)"/><rect x="1465.1" y="1522" width="21.9" height="19" fill="url(#mR2)"/><rect x="1465.1" y="1522" width="21.9" height="19" fill="url(#yR1)"/><rect x="1465.1" y="1541" width="21.9" height="5" fill="url(#yR1)"/><rect x="1465.1" y="1546" width="21.9" height="21" fill="url(#kR1)"/><rect x="1465.1" y="1546" width="21.9" height="21" fill="url(#mR2)"/><rect x="1465.1" y="1546" width="21.9" height="21" fill="url(#yR2)"/><rect x="1465.1" y="1567" width="21.9" height="43" fill="url(#kR2)"/><rect x="1465.1" y="1567" width="21.9" height="43" fill="url(#mR1)"/><rect x="1465.1" y="1567" width="21.9" height="43" fill="url(#yR1)"/><rect x="1465.1" y="1610" width="21.9" height="26" fill="url(#kR1)"/><rect x="1465.1" y="1610" width="21.9" height="26" fill="url(#mR2)"/><rect x="1465.1" y="1610" width="21.9" height="26" fill="url(#yR2)"/><rect x="1465.1" y="1636" width="21.9" height="11" fill="url(#yR1)"/><rect x="1465.1" y="1647" width="21.9" height="15" fill="url(#kR2)"/><rect x="1465.1" y="1647" width="21.9" height="15" fill="url(#mR1)"/><rect x="1465.1" y="1647" width="21.9" height="15" fill="url(#yR1)"/><rect x="1465.1" y="1662" width="21.9" height="80.7" fill="url(#mR1)"/><rect x="1465.1" y="1662" width="21.9" height="80.7" fill="url(#yR2)"/><rect x="1465.1" y="1662" width="21.9" height="80.7" fill="url(#yR1)"/></g><rect x="751.8" y="1219.6" width="4.8" height="525.1" fill="#fff"/><rect x="1237.8" y="1219.6" width="4.3" height="525.1" fill="#fff"/><rect x="1306.9" y="1219.6" width="4.2" height="525.1" fill="#fff"/><rect x="1460.8" y="1219.6" width="4.3" height="525.1" fill="#fff"/><rect x="49" y="1218.6" width="4" height="527.1" fill="#fff"/><rect x="1487" y="1218.6" width="4" height="527.1" fill="#fff"/><rect x="49" y="1217.6" width="1442" height="4" fill="#fff"/><rect x="49" y="1742.7" width="1442" height="4" fill="#fff"/><linearGradient id="hg" x1="0" y1="0" x2="0" y2="1"><stop offset="0" stop-color="#ffff00"/><stop offset=".5" stop-color="#000"/><stop offset="1" stop-color="#ff00ff"/></linearGradient><rect x="1491" y="1608" width="26" height="131.3" fill="url(#hg)"/><text x="1521.2" y="1628.9" font-size="21" text-anchor="start" fill="#000">2</text><text x="1521.2" y="1654.7" font-size="21" text-anchor="start" fill="#000">1</text><text x="1521.2" y="1680.2" font-size="21" text-anchor="start" fill="#000">0</text><text x="1521.2" y="1706" font-size="21" text-anchor="start" fill="#000">-1</text><text x="1521.2" y="1733.2" font-size="21" text-anchor="start" fill="#000">-2</text><path d="M1491 1621.5h5M1517 1621.5h-5M1491 1647.3h5M1517 1647.3h-5M1491 1672.8h5M1517 1672.8h-5M1491 1698.6h5M1517 1698.6h-5M1491 1725.8h5M1517 1725.8h-5" stroke="#fff" stroke-width=".8" fill="none"/><text x="1567.3" y="1674.5" font-size="21.8" text-anchor="middle" fill="#000" transform="rotate(-90 1567.3 1674.5)">Expression</text></g>
<g id="panelE"><text x="-0.5" y="1775.4" font-size="45.5" text-anchor="start" fill="#000">E</text><path d="M109.2 1952.2H146.4M127.8 1952.2V1854.7" stroke="#2b2b2b" stroke-width="1.5" fill="none"/><path d="M150.3 1952.2c.4-1.1 .6-2.2 1.3-3.2c1.3-2.2 5.1-4.4 7.4-6.5c1.7-1.6 3.8-3.3 4.9-4.9s1.9-3.2 2.2-4.8c.8-4.9 1.5-9.8 1.5-14.6c0-3.2-.3-6.5-.6-9.7c-.5-6.5-2.8-13-3.5-19.5c-.2-1.6-.4-3.2-.4-4.8s.2-3.3 .4-4.9c.7-6.5 2.6-12.9 3.1-19.4c1.1-13 1.5-25.9 2.3-38.9h0c.7 13 1.1 25.9 2.2 38.9c.6 6.5 2.5 12.9 3.2 19.4c.1 1.6 .3 3.3 .3 4.9s-.2 3.2-.3 4.8c-.7 6.5-3 13-3.6 19.5c-.2 3.2-.5 6.5-.5 9.7c0 4.8 .7 9.7 1.5 14.6c.2 1.6 1.2 3.2 2.2 4.8s3.1 3.3 4.8 4.9c2.3 2.1 6.2 4.3 7.5 6.5c.6 1 .8 2.1 1.3 3.2z" fill="#0B8A97" stroke="#2b2b2b" stroke-width="1.45" stroke-linejoin="round"/><path d="M191.3 1952.2c.6-2.2 1.1-4.3 1.9-6.5c1.6-4.3 5.3-8.6 6.9-12.9s3.1-8.7 3.5-13c.3-3.2 .5-6.5 .5-9.7s-.4-7.6-.7-11.3c-.7-8.1-2.8-16.2-2.8-24.3c0-4.9 1.1-9.8 1.9-14.6c.5-3.3 1.5-6.5 2.2-9.7c1.2-6.2 2.2-12.3 3.3-18.5h3.8c1.1 6.2 2.1 12.3 3.3 18.5c.7 3.2 1.7 6.4 2.3 9.7c.7 4.8 1.8 9.7 1.8 14.6c0 8.1-2.1 16.2-2.8 24.3c-.3 3.7-.7 7.5-.7 11.3s.2 6.5 .5 9.7c.4 4.3 2 8.6 3.6 13s5.2 8.6 6.8 12.9c.9 2.2 1.3 4.3 1.9 6.5z" fill="#A3A500" stroke="#2b2b2b" stroke-width="1.45" stroke-linejoin="round"/><path d="M232.3 1952.2c1-2.2 1.7-4.3 2.8-6.5s3.1-4.3 4.1-6.5s2-4.3 2.4-6.4c.6-2.7 1-5.4 1.2-8.1c.2-4.9 .3-9.7 .3-14.6c0-16.7-.3-33.5-.3-50.2c0-1.6 .1-3.3 .3-4.9s1.1-3.2 1.5-4.8c1.9-7 4-14.1 4.9-21.1c.2-2.4 .3-4.7 .5-7.1h1.9c.2 2.4 .3 4.7 .5 7.1c.8 7 3 14.1 4.9 21.1c.4 1.6 1.3 3.2 1.5 4.8s.3 3.3 .3 4.9c0 16.7-.3 33.5-.3 50.2c0 4.9 .1 9.7 .3 14.6c.1 2.7 .6 5.4 1.1 8.1c.5 2.1 1.4 4.3 2.5 6.4s2.9 4.4 4.1 6.5s1.8 4.3 2.7 6.5z" fill="#5C5CFF" stroke="#2b2b2b" stroke-width="1.45" stroke-linejoin="round"/><path d="M280.3 1952.2c.1-2.2 .2-4.3 .5-6.5s1.4-4.3 1.9-6.5c.7-3.2 1.4-6.4 1.8-9.7s1-6.9 1-10.3s-1.2-6.1-1.9-9.1c-.9-3.8-2.2-7.6-3.5-11.3s-3-6.5-3.9-9.8s-1.8-6.4-2.3-9.7c-.2-1.9-.5-3.9-.5-5.8c0-2.9 .4-5.8 .7-8.8c.2-1.6 .7-3.2 1.1-4.8c.9-3.3 2.3-6.5 3.2-9.7c2.5-9.2 4.8-18.4 6.3-27.6c.3-1.8 .5-3.6 .8-5.5h13c.2 1.9 .4 3.7 .7 5.5c1.6 9.2 3.9 18.4 6.3 27.6c.9 3.2 2.3 6.4 3.2 9.7c.4 1.6 .9 3.2 1.1 4.8c.4 3 .8 5.9 .8 8.8c0 1.9-.3 3.9-.6 5.8c-.4 3.3-1.3 6.5-2.2 9.7s-2.8 6.5-3.9 9.8s-2.6 7.5-3.6 11.3c-.7 3-1.8 6-1.8 9.1s.5 6.9 .9 10.3s1.1 6.5 1.9 9.7c.5 2.2 1.5 4.4 1.8 6.5s.4 4.3 .6 6.5z" fill="#00BF7D" stroke="#2b2b2b" stroke-width="1.45" stroke-linejoin="round"/><path d="M103.1 1809.7V1959.3H317.4" fill="none" stroke="#000" stroke-width="1.9"/><text x="91.5" y="1960.2" font-size="19.6" text-anchor="end" fill="#000">0</text><text x="91.5" y="1927.8" font-size="19.6" text-anchor="end" fill="#000">1</text><text x="91.5" y="1895.4" font-size="19.6" text-anchor="end" fill="#000">2</text><text x="91.5" y="1863" font-size="19.6" text-anchor="end" fill="#000">3</text><text x="91.5" y="1830.6" font-size="19.6" text-anchor="end" fill="#000">4</text><path d="M127.8 1959.3v5.6M168.9 1959.3v5.6M209.9 1959.3v5.6M250.9 1959.3v5.6M292 1959.3v5.6M103.1 1952.2h-5.6M103.1 1919.8h-5.6M103.1 1887.4h-5.6M103.1 1855h-5.6M103.1 1822.6h-5.6" stroke="#000" stroke-width="1.9" fill="none"/><text x="208.2" y="1793.4" font-size="27.2" text-anchor="middle" fill="#000">Fosb</text><text x="70.2" y="1884.5" font-size="23.3" text-anchor="middle" fill="#000" transform="rotate(-90 70.2 1884.5)">Expression Level</text><path d="M397.2 1952.2c1.6-1.1 3-2.2 4.7-3.3s4.6-2.7 6.5-4s4.7-2.7 5.2-4c.8-2 1.3-4 1.3-6s-.1-4-.2-6c-.3-7.5-2.8-15.1-2.8-22.6s3-18.2 3.4-27.3s.4-15.5 .5-23.3h0c.2 7.8 .3 15.5 .6 23.3s3.4 18.2 3.4 27.3s-2.5 15.1-2.8 22.6c-.1 2-.2 4-.2 6s.5 4 1.3 6c.5 1.3 3.3 2.6 5.2 4s4.5 2.6 6.5 4s3.1 2.2 4.6 3.3z" fill="#F8766D" stroke="#2b2b2b" stroke-width="1.45" stroke-linejoin="round"/><path d="M438.3 1952.2c2.8-3.1 5.8-6.2 8.3-9.3c1.7-2 3.6-4 4.7-6c1.4-2.7 2.8-5.3 3.3-8c.4-2 .8-4 .8-6s-.2-3.8-.4-5.6c-.3-2.8-1.3-5.6-2.2-8.4c-2.2-6.6-6.4-13.3-8.2-19.9c-.7-2.6-1.5-5.1-1.5-7.7s.2-5.3 .4-8s1.3-6.4 2.2-9.6c1.9-6.7 5.3-13.3 7.1-20c.9-3.3 1.9-6.6 2.2-10c.6-5.1 .8-10.2 1.1-15.3h1.5c.4 5.1 .6 10.2 1.1 15.3c.4 3.4 1.4 6.7 2.3 10c1.8 6.7 5.2 13.3 7 20c.9 3.2 2 6.4 2.3 9.6s.3 5.4 .3 8s-.8 5.1-1.4 7.7c-1.8 6.6-6.1 13.3-8.2 19.9c-.9 2.8-2 5.6-2.3 8.4c-.2 1.8-.3 3.7-.3 5.6s.3 4 .7 6c.5 2.7 1.9 5.3 3.4 8c1 2 2.9 4 4.6 6c2.6 3.1 5.6 6.2 8.4 9.3z" fill="#0B8A97" stroke="#2b2b2b" stroke-width="1.45" stroke-linejoin="round"/><path d="M490.3 1952.2c-.3-6.4-.3-12.9-.8-19.3c-.1-2.7-1.7-5.3-2.7-8s-2.8-5.1-3.8-7.6s-1.9-5.6-2.4-8.4s-.8-5.1-.9-7.6c-.2-8-.4-16-.4-24c0-2.6 .3-5.3 .6-8s1.3-5.1 2.2-7.6c1.8-5.3 4.7-10.7 6.5-16s3.4-10.6 4.5-16c.7-3.5 1.1-7.1 1.6-10.6h6.4c.5 3.5 .9 7.1 1.6 10.6c1.1 5.4 2.7 10.7 4.5 16s4.7 10.7 6.5 16c.9 2.5 2 5.1 2.3 7.6s.5 5.4 .5 8c0 8-.1 16-.4 24c0 2.5-.5 5.1-.9 7.6s-1.4 5.6-2.4 8.4s-2.7 5.1-3.7 7.6s-2.6 5.3-2.8 8c-.5 6.4-.5 12.9-.8 19.3z" fill="#A3A500" stroke="#2b2b2b" stroke-width="1.45" stroke-linejoin="round"/><path d="M530 1952.2c.2-1.8 .3-3.5 .6-5.3s1.3-4 1.3-6c0-1.3-.2-2.7-.4-4c-.4-2.7-3.3-5.3-4.7-8s-2.8-5.3-3.7-8s-1.4-5.1-1.8-7.6s-1-5.4-1-8c0-4 0-8 0-12c0-2.6 .3-5.1 .6-7.7s1.1-5.5 1.9-8.3c2.6-9.2 7.6-18.4 10.6-27.6c1-3.3 2.1-6.7 2.8-10s1.1-6.6 1.6-10h2.3c.5 3.4 .9 6.7 1.6 10s1.7 6.7 2.8 10c3 9.2 8 18.4 10.6 27.6c.8 2.8 1.6 5.6 1.9 8.3s.5 5.1 .5 7.7c0 4 0 8 0 12c0 2.6-.5 5.3-.9 8s-1 5.1-1.8 7.6s-2.4 5.3-3.8 8s-4.2 5.3-4.6 8c-.2 1.3-.4 2.7-.4 4c0 2 1 4 1.3 6s.4 3.5 .6 5.3z" fill="#5C5CFF" stroke="#2b2b2b" stroke-width="1.45" stroke-linejoin="round"/><path d="M569.6 1952.2c.3-2.4 .6-4.9 1.1-7.3s1.9-5.3 2.6-8s1.3-5.3 1.6-8c.3-2 .6-4 .6-6s-.6-3.8-1.1-5.6c-.7-2.8-2-5.6-3.2-8.4s-3.2-6.6-4.6-9.9s-2.9-6.7-3.7-10c-.7-2.6-1.5-5.1-1.5-7.7s0-5.3 0-8s1.1-5.1 1.8-7.6c2-6.7 5.6-13.3 7.8-20c1.2-3.3 2.2-6.7 3-10s1.7-6.6 2.2-10s.8-5.7 1.2-8.6h5.2c.3 2.9 .6 5.8 1.1 8.6s1.4 6.7 2.2 10s1.9 6.7 3 10c2.3 6.7 5.8 13.3 7.8 20c.8 2.5 1.9 5.1 1.9 7.6s0 5.4 0 8s-.9 5.1-1.5 7.7c-.9 3.3-2.4 6.6-3.7 10s-3.3 6.6-4.7 9.9s-2.4 5.6-3.1 8.4c-.5 1.8-1.2 3.7-1.2 5.6s.3 4 .6 6c.3 2.7 1 5.3 1.7 8s2 5.3 2.6 8s.7 4.9 1.1 7.3z" fill="#00BF7D" stroke="#2b2b2b" stroke-width="1.45" stroke-linejoin="round"/><path d="M391.1 1809.7V1959.3H605.4" fill="none" stroke="#000" stroke-width="1.9"/><text x="379.5" y="1960.2" font-size="19.6" text-anchor="end" fill="#000">0</text><text x="379.5" y="1926.9" font-size="19.6" text-anchor="end" fill="#000">1</text><text x="379.5" y="1893.6" font-size="19.6" text-anchor="end" fill="#000">2</text><text x="379.5" y="1860.4" font-size="19.6" text-anchor="end" fill="#000">3</text><text x="379.5" y="1827.1" font-size="19.6" text-anchor="end" fill="#000">4</text><path d="M415.9 1959.3v5.6M456.9 1959.3v5.6M497.9 1959.3v5.6M538.9 1959.3v5.6M580 1959.3v5.6M391.1 1952.2h-5.6M391.1 1918.9h-5.6M391.1 1885.6h-5.6M391.1 1852.4h-5.6M391.1 1819.1h-5.6" stroke="#000" stroke-width="1.9" fill="none"/><text x="494.7" y="1793.4" font-size="27.2" text-anchor="middle" fill="#000">Jund</text><text x="358.2" y="1884.5" font-size="23.3" text-anchor="middle" fill="#000" transform="rotate(-90 358.2 1884.5)">Expression Level</text><path d="M685 1952.2H722.2M703.6 1952.2V1873.3" stroke="#2b2b2b" stroke-width="1.5" fill="none"/><path d="M726.1 1952.2c1.2-1.2 2.3-2.3 3.7-3.5s4-2.6 5.6-3.8s3-2.6 4.1-3.9s2.3-2.8 2.9-4.2s1.2-2.5 1.4-3.8c.2-2.7 .3-5.4 .3-8c0-5.3-.1-10.5-.2-15.8c-.1-8.6-2.4-17.2-2.4-25.8s1.9-15.8 2.3-23.7c.4-10.3 .6-20.5 .9-30.8h0c.3 10.3 .4 20.5 .9 30.8c.4 7.9 2.2 15.8 2.2 23.7s-2.2 17.2-2.4 25.8c-.1 5.3-.2 10.5-.2 15.8c0 2.6 .2 5.3 .4 8c.1 1.3 .7 2.6 1.3 3.8s1.8 2.8 3 4.2s2.5 2.6 4.1 3.9s4 2.5 5.6 3.8s2.4 2.3 3.7 3.5z" fill="#0B8A97" stroke="#2b2b2b" stroke-width="1.45" stroke-linejoin="round"/><path d="M775.1 1952.2c.3-2.4 .5-4.9 .9-7.3s1.3-4 1.3-6c0-1.3-.4-2.5-.9-3.8c-1.4-4.1-5.7-8.2-7.4-12.2c-.8-1.9-1.9-3.8-1.9-5.6c0-1.4 0-2.8 0-4.2c0-7.9 4.5-15.8 6-23.8c.6-3.3 .8-6.7 1.5-10.1s1.3-6.5 2.2-9.8c1.5-5.2 4.1-10.4 5.7-15.7c.7-2.1 1.4-4.2 1.7-6.3s.6-5.1 .8-7.6c.3-7.7 .5-15.3 .7-22.9h0c.3 7.6 .4 15.2 .8 22.9c.1 2.5 .3 5.1 .7 7.6s1 4.2 1.7 6.3c1.6 5.3 4.3 10.5 5.7 15.7c1 3.3 1.7 6.6 2.3 9.8s.8 6.8 1.5 10.1c1.4 8 5.9 15.9 5.9 23.8c0 1.4 0 2.8 0 4.2c0 1.8-1 3.7-1.9 5.6c-1.7 4-6 8.1-7.4 12.2c-.4 1.3-.9 2.5-.9 3.8c0 2 1 4 1.3 6s.6 4.9 .9 7.3z" fill="#A3A500" stroke="#2b2b2b" stroke-width="1.45" stroke-linejoin="round"/><path d="M810.7 1952.2c.4-1.2 .6-2.3 1.2-3.5c1.1-2.6 6.5-5.1 6.5-7.7c0-1.4 0-2.8 0-4.2c0-2.5-2.4-5.1-3.8-7.6s-2.7-4.2-3.7-6.3s-1.9-3.8-2.2-5.6s-.6-4.2-.6-6.3s.3-4 .6-5.9c1.8-11.9 10.1-23.8 14.3-35.7c.7-1.9 1.5-3.9 1.9-5.9c.4-2.7 .8-5.4 .9-8c.5-12.3 .6-24.5 .9-36.7h0c.3 12.2 .5 24.4 1 36.7c.1 2.6 .4 5.3 .9 8c.3 2 1.2 4 1.9 5.9c4.1 11.9 12.5 23.8 14.3 35.7c.3 1.9 .5 3.9 .5 5.9s-.2 4.2-.5 6.3s-1.4 3.7-2.2 5.6s-2.7 4.2-3.8 6.3s-3.7 5.1-3.7 7.6c0 1.4 0 2.8 0 4.2c0 2.6 5.3 5.1 6.5 7.7c.6 1.2 .8 2.3 1.1 3.5z" fill="#5C5CFF" stroke="#2b2b2b" stroke-width="1.45" stroke-linejoin="round"/><path d="M849.2 1952.2c0-1.7 0-3.5 0-5.2c0-4.7 5-9.4 7-14c1.2-2.7 2.4-5.4 3.2-8c.6-2 1.4-4 1.5-6c.2-3.2 .4-6.5 .4-9.8c0-6.6-.2-13.2-.2-19.9c0-9.9 1.1-19.7 1.8-29.6s2-21.2 3-31.8h3.7c1 10.6 2.2 21.2 3 31.8s1.9 19.7 1.9 29.6c0 6.7-.2 13.3-.2 19.9c0 3.3 .1 6.6 .4 9.8c.1 2 .8 4 1.4 6c.9 2.6 2 5.3 3.2 8c2.1 4.6 7.1 9.3 7.1 14c0 1.7 0 3.5 0 5.2z" fill="#00BF7D" stroke="#2b2b2b" stroke-width="1.45" stroke-linejoin="round"/><path d="M678.9 1809.7V1959.3H893.2" fill="none" stroke="#000" stroke-width="1.9"/><text x="667.3" y="1960.2" font-size="19.6" text-anchor="end" fill="#000">0</text><text x="667.3" y="1925.3" font-size="19.6" text-anchor="end" fill="#000">1</text><text x="667.3" y="1890.4" font-size="19.6" text-anchor="end" fill="#000">2</text><text x="667.3" y="1855.4" font-size="19.6" text-anchor="end" fill="#000">3</text><text x="667.3" y="1820.5" font-size="19.6" text-anchor="end" fill="#000">4</text><path d="M703.6 1959.3v5.6M744.7 1959.3v5.6M785.7 1959.3v5.6M826.7 1959.3v5.6M867.8 1959.3v5.6M678.9 1952.2h-5.6M678.9 1917.3h-5.6M678.9 1882.4h-5.6M678.9 1847.4h-5.6M678.9 1812.5h-5.6" stroke="#000" stroke-width="1.9" fill="none"/><text x="785.2" y="1793.4" font-size="27.2" text-anchor="middle" fill="#000">Sox4</text><text x="646" y="1884.5" font-size="23.3" text-anchor="middle" fill="#000" transform="rotate(-90 646 1884.5)">Expression Level</text><path d="M990.5 1952.2H1027.8M1009.1 1952.2V1847.3" stroke="#2b2b2b" stroke-width="1.5" fill="none"/><path d="M1031.6 1952.2c3.4-2.4 7.5-4.8 10.2-7.2c1.5-1.3 2.7-2.7 3.7-4s2.3-2.6 2.8-3.9s1.1-2.7 1.1-4c0-7.9 0-15.9 0-23.8c0-10-1.8-19.9-1.8-29.9c0-3.4 .2-6.8 .3-10.1s1-6.5 1.2-9.7c.6-12.9 .7-25.8 1.1-38.6h0c.4 12.8 .5 25.7 1.1 38.6c.1 3.2 .9 6.4 1.1 9.7s.4 6.7 .4 10.1c0 10-1.9 19.9-1.9 29.9c0 7.9 0 15.9 0 23.8c0 1.3 .6 2.6 1.1 4s1.8 2.6 2.8 3.9s2.3 2.7 3.8 4c2.7 2.4 6.8 4.8 10.2 7.2z" fill="#0B8A97" stroke="#2b2b2b" stroke-width="1.45" stroke-linejoin="round"/><path d="M1080.4 1952.2c.5-2.4 .9-4.8 1.5-7.2c.4-1.3 1.5-2.7 1.5-4c0-2-.2-4.1-.6-6.1s-1.9-3.8-2.8-5.8c-1.4-3.3-2.6-6.7-3.7-10.1s-2.2-6.5-2.8-9.7s-.9-5.3-.9-7.9s0-5.3 0-8c0-16.4 15.9-32.9 16.8-49.4c.4-9 .4-18 .7-27h2.2c.3 9 .3 18 .8 27c.8 16.5 16.7 33 16.7 49.4c0 2.7 0 5.3 0 8s-.5 5.3-.9 7.9s-1.8 6.5-2.8 9.7s-2.3 6.8-3.7 10.1c-.8 2-2.5 3.9-2.8 5.8s-.6 4.1-.6 6.1c0 1.3 1.2 2.7 1.5 4c.7 2.4 1 4.8 1.5 7.2z" fill="#A3A500" stroke="#2b2b2b" stroke-width="1.45" stroke-linejoin="round"/><path d="M1114 1952.2c.2-1.8 .2-3.6 .6-5.4c.2-1.3 2.9-2.7 3.7-4s1.9-2.6 1.9-3.9s-.6-2.7-1-4c-.6-1.9-2.1-3.8-2.8-5.8s-1.4-4.1-1.8-6.1s-1-3.8-1-5.8c0-5.3 .3-10.5 .6-15.8c.5-8 6-15.9 8.7-23.8s6.3-16.1 7.9-24.2c.2-1.3 .5-2.6 .5-3.9c.1-7.5 .1-14.9 .2-22.4h1.5c0 7.5 .1 14.9 .2 22.4c0 1.3 .3 2.6 .5 3.9c1.6 8.1 5.1 16.1 7.8 24.2s8.3 15.8 8.8 23.8c.3 5.3 .5 10.5 .5 15.8c0 2-.5 3.9-.9 5.8s-1.1 4.1-1.9 6.1s-2.1 3.9-2.7 5.8c-.5 1.3-1 2.6-1 4s1.1 2.6 1.9 3.9s3.5 2.7 3.7 4c.3 1.8 .4 3.6 .6 5.4z" fill="#5C5CFF" stroke="#2b2b2b" stroke-width="1.45" stroke-linejoin="round"/><path d="M1154.7 1952.2c.3-1.1 .4-2.2 .9-3.2s2.6-2.7 3.7-4c1.7-2.1 3.5-4.1 4.7-6.1s2-3.9 2.8-5.8c.5-1.3 1.1-2.7 1.3-4c.3-2 .5-4.1 .5-6.1c.1-4.6 .2-9.1 .2-13.7c0-6.6-.6-13.2-.6-19.8c0-5.2 .7-10.4 1-15.5h8.2c.3 5.1 .9 10.3 .9 15.5c0 6.6-.6 13.2-.6 19.8c0 4.6 .1 9.1 .2 13.7c.1 2 .3 4.1 .6 6.1c.2 1.3 .8 2.7 1.3 4c.7 1.9 1.6 3.8 2.8 5.8s2.9 4 4.6 6.1c1.1 1.3 3.2 2.6 3.7 4s.7 2.1 1 3.2z" fill="#00BF7D" stroke="#2b2b2b" stroke-width="1.45" stroke-linejoin="round"/><path d="M984.4 1809.7V1959.3H1198.7" fill="none" stroke="#000" stroke-width="1.9"/><text x="972.8" y="1960.2" font-size="19.6" text-anchor="end" fill="#000">0</text><text x="972.8" y="1924.2" font-size="19.6" text-anchor="end" fill="#000">1</text><text x="972.8" y="1888.1" font-size="19.6" text-anchor="end" fill="#000">2</text><text x="972.8" y="1852" font-size="19.6" text-anchor="end" fill="#000">3</text><path d="M1009.1 1959.3v5.6M1050.2 1959.3v5.6M1091.2 1959.3v5.6M1132.2 1959.3v5.6M1173.3 1959.3v5.6M984.4 1952.2h-5.6M984.4 1916.2h-5.6M984.4 1880.1h-5.6M984.4 1844h-5.6" stroke="#000" stroke-width="1.9" fill="none"/><text x="1091" y="1793.4" font-size="27.2" text-anchor="middle" fill="#000">Id2</text><text x="934.5" y="1884.5" font-size="23.3" text-anchor="middle" fill="#000" transform="rotate(-90 934.5 1884.5)">Expression Level</text><path d="M1278 1952.2H1315.1M1296.5 1952.2V1930.1" stroke="#2b2b2b" stroke-width="1.5" fill="none"/><path d="M1319 1952.2H1356.2M1337.6 1952.2V1880" stroke="#2b2b2b" stroke-width="1.5" fill="none"/><path d="M1360 1952.2c.3-1.1 .6-2.2 .9-3.3c1.2-3.4 3.4-6.7 4.3-10.1c.6-2 1.2-4 1.3-6c.3-5.2 .6-10.5 .6-15.7c0-7.2-1.1-14.5-1.1-21.7c0-2 .6-4 1.1-6c1-4.1 3.2-8.1 4.4-12.1c.8-2.5 1.6-5.1 2.1-7.7c1.1-5.9 1.6-11.8 2.4-17.7h5.2c.8 5.9 1.4 11.8 2.4 17.7c.5 2.6 1.3 5.2 2.1 7.7c1.2 4 3.4 8 4.4 12.1c.5 2 1.2 4 1.2 6c0 7.2-1.2 14.5-1.2 21.7c0 5.2 .3 10.5 .6 15.7c.1 2 .7 4 1.3 6c1 3.4 3.2 6.7 4.3 10.1c.4 1.1 .6 2.2 .9 3.3z" fill="#A3A500" stroke="#2b2b2b" stroke-width="1.45" stroke-linejoin="round"/><path d="M1401 1952.2c1.3-1.1 2.4-2.2 3.8-3.3s4.1-2.7 5.5-4.1s3.3-2.6 3.8-4s.8-2.6 .9-4c.3-6 .3-12 .5-18c.7-13.8 3.1-27.7 3.6-41.5c.3-7.7 .4-15.4 .5-23h0c.2 7.6 .3 15.3 .6 23c.5 13.8 2.9 27.7 3.5 41.5c.3 6 .3 12 .6 18c.1 1.4 .4 2.7 .9 4s2.3 2.7 3.7 4s4 2.7 5.6 4.1s2.5 2.2 3.7 3.3z" fill="#5C5CFF" stroke="#2b2b2b" stroke-width="1.45" stroke-linejoin="round"/><path d="M1442.1 1952.2c.6-1.1 1.1-2.2 1.8-3.3c1.8-2.7 5.1-5.4 6.5-8.1c1.1-2 2.1-4 2.5-6c3.6-20.5 6.9-41 7-61.5s.2-37.7 .2-56.5h1.1c.1 18.8 .1 37.7 .2 56.5s3.4 41 7.1 61.5c.3 2 1.3 4 2.4 6c1.4 2.7 4.7 5.4 6.5 8.1c.7 1.1 1.2 2.2 1.9 3.3z" fill="#00BF7D" stroke="#2b2b2b" stroke-width="1.45" stroke-linejoin="round"/><path d="M1271.8 1809.7V1959.3H1486.1" fill="none" stroke="#000" stroke-width="1.9"/><text x="1260.2" y="1960.2" font-size="19.6" text-anchor="end" fill="#000">0</text><text x="1260.2" y="1926.8" font-size="19.6" text-anchor="end" fill="#000">1</text><text x="1260.2" y="1893.3" font-size="19.6" text-anchor="end" fill="#000">2</text><text x="1260.2" y="1859.9" font-size="19.6" text-anchor="end" fill="#000">3</text><text x="1260.2" y="1826.5" font-size="19.6" text-anchor="end" fill="#000">4</text><path d="M1296.5 1959.3v5.6M1337.6 1959.3v5.6M1378.6 1959.3v5.6M1419.6 1959.3v5.6M1460.7 1959.3v5.6M1271.8 1952.2h-5.6M1271.8 1918.8h-5.6M1271.8 1885.3h-5.6M1271.8 1851.9h-5.6M1271.8 1818.5h-5.6" stroke="#000" stroke-width="1.9" fill="none"/><text x="1377.3" y="1793.4" font-size="27.2" text-anchor="middle" fill="#000">Id1</text><text x="1238.9" y="1884.5" font-size="23.3" text-anchor="middle" fill="#000" transform="rotate(-90 1238.9 1884.5)">Expression Level</text><path d="M109.2 2155.2H146.4M127.8 2155.2V2068" stroke="#2b2b2b" stroke-width="1.5" fill="none"/><path d="M150.3 2155.2H187.5M168.9 2155.2V2028.7" stroke="#2b2b2b" stroke-width="1.5" fill="none"/><path d="M192.4 2155.2c.1-1.8 .2-3.5 .4-5.3c.4-4 2.2-8 2.2-12c0-2.7-.2-5.3-.3-8c-.4-5.2-1.6-10.4-2.1-15.6c-.6-6.7-1.3-13.3-1.3-20c0-11.9 1-23.7 2.2-35.6c.4-3.3 1.5-6.7 2.6-10c1.7-4.9 4.6-9.8 6.9-14.6h13.8c2.3 4.8 5.2 9.7 6.9 14.6c1.1 3.3 2.2 6.7 2.6 10c1.2 11.9 2.2 23.7 2.2 35.6c0 6.7-.7 13.3-1.3 20c-.4 5.2-1.7 10.4-2 15.6c-.2 2.7-.4 5.3-.4 8c0 4 1.8 8 2.2 12c.2 1.8 .3 3.5 .4 5.3z" fill="#A3A500" stroke="#2b2b2b" stroke-width="1.45" stroke-linejoin="round"/><path d="M235.3 2155.2c.4-1.8 .9-3.5 1.1-5.3s.6-4 .6-6c0-7.3-3.5-14.7-4.1-22c-.3-3.9-.6-7.7-.6-11.6c0-2.7 .7-5.4 .8-8c.1-5.3 .1-10.7 .2-16c0-2.7 .2-5.3 .5-8c.2-2 .7-4 1.3-6c1.8-5.8 6.3-11.7 8.4-17.6c1.4-4 2.5-8 3.3-12c.6-2.6 1.2-5.3 1.5-8c.6-5 .9-10 1.3-14.9h2.6c.5 4.9 .8 9.9 1.3 14.9c.4 2.7 .9 5.4 1.5 8c.9 4 2 8 3.4 12c2 5.9 6.6 11.8 8.4 17.6c.5 2 1 4 1.3 6c.2 2.7 .5 5.3 .5 8c.1 5.3 .1 10.7 .2 16c.1 2.6 .7 5.3 .7 8c0 3.9-.2 7.7-.5 11.6c-.6 7.3-4.1 14.7-4.1 22c0 2 .3 4 .5 6s.8 3.5 1.2 5.3z" fill="#5C5CFF" stroke="#2b2b2b" stroke-width="1.45" stroke-linejoin="round"/><path d="M273.4 2155.2c.3-1.8 .5-3.5 .9-5.3c.9-4 3.3-8 4.3-12s2.2-8 2.2-12c0-2.5 0-5.1 0-7.6c0-8-2.2-16-2.2-24c0-2.7 .2-5.3 .4-8c.3-5.3 1.7-10.6 2.7-16c.6-2.5 1.4-5.1 1.9-7.6c2-9.3 3.5-18.7 5.2-28h6.3c1.8 9.3 3.3 18.7 5.2 28c.6 2.5 1.4 5.1 1.9 7.6c1.1 5.4 2.4 10.7 2.8 16c.2 2.7 .4 5.3 .4 8c0 8-2.3 16-2.3 24c0 2.5 0 5.1 0 7.6c0 4 1.3 8 2.3 12s3.3 8 4.2 12c.5 1.8 .7 3.5 1 5.3z" fill="#00BF7D" stroke="#2b2b2b" stroke-width="1.45" stroke-linejoin="round"/><path d="M103.1 2012.3V2162.3H317.4" fill="none" stroke="#000" stroke-width="1.9"/><text x="91.5" y="2163.2" font-size="19.6" text-anchor="end" fill="#000">0</text><text x="91.5" y="2129.9" font-size="19.6" text-anchor="end" fill="#000">1</text><text x="91.5" y="2096.6" font-size="19.6" text-anchor="end" fill="#000">2</text><text x="91.5" y="2063.4" font-size="19.6" text-anchor="end" fill="#000">3</text><text x="91.5" y="2030.1" font-size="19.6" text-anchor="end" fill="#000">4</text><path d="M127.8 2162.3v5.6M168.9 2162.3v5.6M209.9 2162.3v5.6M250.9 2162.3v5.6M292 2162.3v5.6M103.1 2155.2h-5.6M103.1 2121.9h-5.6M103.1 2088.6h-5.6M103.1 2055.4h-5.6M103.1 2022.1h-5.6" stroke="#000" stroke-width="1.9" fill="none"/><text x="208.5" y="1995.4" font-size="27.2" text-anchor="middle" fill="#000">Hbegf</text><text x="70.2" y="2087.3" font-size="23.3" text-anchor="middle" fill="#000" transform="rotate(-90 70.2 2087.3)">Expression Level</text><path d="M397.2 2155.2H434.5M415.9 2155.2V2102.3" stroke="#2b2b2b" stroke-width="1.5" fill="none"/><path d="M438.3 2155.2H475.5M456.9 2155.2V2044.5" stroke="#2b2b2b" stroke-width="1.5" fill="none"/><path d="M479.3 2155.2c1.3-.8 2.3-1.6 3.7-2.5s4.2-1.8 5.6-2.8c1.9-1.3 3.7-2.6 4.7-3.9s2.3-2.8 2.4-4.2c.3-7.9 .2-15.8 .5-23.6c.1-2 .8-4 .8-6c0-6-.2-12-.2-18c0-24.9 .7-49.9 1.1-74.8h0c.4 24.9 1.1 49.9 1.1 74.8c0 6-.2 12-.2 18c0 2 .7 4 .8 6c.3 7.8 .2 15.7 .5 23.6c.1 1.4 1.4 2.8 2.5 4.2s2.7 2.6 4.6 3.9c1.4 1 4 1.9 5.6 2.8s2.5 1.7 3.7 2.5z" fill="#A3A500" stroke="#2b2b2b" stroke-width="1.45" stroke-linejoin="round"/><path d="M520.3 2155.2c1-.8 1.7-1.6 2.8-2.5s3.5-1.8 4.7-2.8c1.5-1.3 2.9-2.6 3.7-3.9s1.7-2.8 1.9-4.2c.2-2 .3-4 .3-6s-1-3.8-1.3-5.6s-.5-4-.5-6c0-10 3.5-20 4.8-30c.4-3.2 1-6.4 1.1-9.5c.6-13.3 .8-26.6 1.1-39.9h0c.4 13.3 .6 26.6 1.2 39.9c.1 3.1 .6 6.3 1.1 9.5c1.3 10 4.8 20 4.8 30c0 2-.3 4-.6 6s-1.3 3.7-1.3 5.6s.2 4 .4 6c.2 1.4 1 2.8 1.9 4.2s2.1 2.6 3.7 3.9c1.1 1 3.4 1.9 4.7 2.8s1.8 1.7 2.7 2.5z" fill="#5C5CFF" stroke="#2b2b2b" stroke-width="1.45" stroke-linejoin="round"/><path d="M561.4 2155.2c.1-1.8 .1-3.5 .3-5.3s1.6-4 2.5-6c1.8-4 4.6-8 6.1-12c.8-2 1.4-4 1.9-6s.8-4 1.1-6c.6-5.3 1.3-10.6 1.5-15.8c.4-13.2 .3-26.4 .7-39.5c.3-9.3 1.9-18.6 2.8-27.9h3.3c1 9.3 2.5 18.6 2.8 27.9c.5 13.1 .4 26.3 .8 39.5c.1 5.2 .8 10.5 1.5 15.8c.2 2 .6 4 1.1 6s1.1 4 1.8 6c1.6 4 4.4 8 6.2 12c.9 2 2.2 4 2.4 6s.2 3.5 .4 5.3z" fill="#00BF7D" stroke="#2b2b2b" stroke-width="1.45" stroke-linejoin="round"/><path d="M391.1 2012.3V2162.3H605.4" fill="none" stroke="#000" stroke-width="1.9"/><text x="379.5" y="2163.2" font-size="19.6" text-anchor="end" fill="#000">0</text><text x="379.5" y="2127.9" font-size="19.6" text-anchor="end" fill="#000">1</text><text x="379.5" y="2092.7" font-size="19.6" text-anchor="end" fill="#000">2</text><text x="379.5" y="2057.4" font-size="19.6" text-anchor="end" fill="#000">3</text><text x="379.5" y="2022.1" font-size="19.6" text-anchor="end" fill="#000">4</text><path d="M415.9 2162.3v5.6M456.9 2162.3v5.6M497.9 2162.3v5.6M538.9 2162.3v5.6M580 2162.3v5.6M391.1 2155.2h-5.6M391.1 2119.9h-5.6M391.1 2084.7h-5.6M391.1 2049.4h-5.6M391.1 2014.1h-5.6" stroke="#000" stroke-width="1.9" fill="none"/><text x="498.2" y="1995.4" font-size="27.2" text-anchor="middle" fill="#000">F3</text><text x="358.2" y="2087.3" font-size="23.3" text-anchor="middle" fill="#000" transform="rotate(-90 358.2 2087.3)">Expression Level</text><path d="M685 2155.2H722.2M703.6 2155.2V2094.3" stroke="#2b2b2b" stroke-width="1.5" fill="none"/><path d="M726.1 2155.2H763.3M744.7 2155.2V2019.4" stroke="#2b2b2b" stroke-width="1.5" fill="none"/><path d="M767.1 2155.2c2.5-.8 5.6-1.6 7.5-2.4c2.3-1 4.2-2.1 5.5-3.1s2.4-2 2.8-2.9s.9-2 .9-3c0-1.3-1.2-2.7-1.4-4s-.4-2.5-.4-3.7c0-3.4 1.9-6.8 2.2-10.3c.6-7.2 1.1-14.4 1.1-21.6c.3-19.5 .3-38.9 .4-58.4h0c.1 19.5 .2 38.9 .4 58.4c.1 7.2 .5 14.4 1.1 21.6c.3 3.5 2.2 6.9 2.2 10.3c0 1.2-.1 2.5-.3 3.7s-1.5 2.7-1.5 4c0 1 .4 2 .9 3s1.6 1.9 2.8 2.9s3.2 2.1 5.6 3.1c1.8 .8 4.9 1.6 7.4 2.4z" fill="#A3A500" stroke="#2b2b2b" stroke-width="1.45" stroke-linejoin="round"/><path d="M808.1 2155.2c2.2-1.8 4.9-3.7 6.5-5.5c1.2-1.2 2.6-2.5 2.8-3.7s.4-2.2 .4-3.3c0-1.6-1.4-3.2-2.2-4.7s-2.8-4-3.7-5.9s-1.9-4.2-2.5-6.3s-1.3-3.9-1.3-5.8s0-3.9 0-5.9s.7-3.9 1.3-5.9c1.5-4.6 6-9.3 7.7-13.9c3.6-9.9 6.7-19.8 8.2-29.7c.1-1.3 .2-2.5 .3-3.7h2.3c.1 1.2 .1 2.4 .3 3.7c1.5 9.9 4.6 19.8 8.2 29.7c1.7 4.6 6.2 9.3 7.6 13.9c.7 2 1.3 3.9 1.3 5.9s0 3.9 0 5.9s-.7 3.9-1.3 5.8s-1.4 4.2-2.4 6.3s-2.6 3.9-3.7 5.9s-2.2 3.1-2.2 4.7c0 1.1 .1 2.2 .3 3.3s1.7 2.5 2.8 3.7c1.7 1.8 4.4 3.7 6.5 5.5z" fill="#5C5CFF" stroke="#2b2b2b" stroke-width="1.45" stroke-linejoin="round"/><path d="M849.2 2155.2c.6-.8 1.1-1.6 1.8-2.4c1-1 2.6-2.1 3.8-3.1s2.8-2.5 3.7-3.7s1.6-2.7 2.2-4s1.2-2.7 1.5-4c.5-2 .9-4 1.1-5.9c.6-6 1.1-12 1.3-18c.1-3.3 .2-6.6 .2-9.9c0-4.7-.8-9.3-.8-14c0-10.5 1.3-21 1.9-31.5h3.7c.6 10.5 1.9 21 1.9 31.5c0 4.7-.8 9.3-.8 14c0 3.3 .1 6.6 .2 9.9c.2 6 .7 12 1.3 18c.2 1.9 .7 3.9 1.2 5.9c.3 1.3 .8 2.6 1.4 4s1.3 2.7 2.3 4s2.3 2.5 3.7 3.7s2.7 2.1 3.7 3.1c.8 .8 1.3 1.6 1.9 2.4z" fill="#00BF7D" stroke="#2b2b2b" stroke-width="1.45" stroke-linejoin="round"/><path d="M678.9 2012.3V2162.3H893.2" fill="none" stroke="#000" stroke-width="1.9"/><text x="667.3" y="2163.2" font-size="19.6" text-anchor="end" fill="#000">0</text><text x="667.3" y="2126.5" font-size="19.6" text-anchor="end" fill="#000">1</text><text x="667.3" y="2089.8" font-size="19.6" text-anchor="end" fill="#000">2</text><text x="667.3" y="2053.1" font-size="19.6" text-anchor="end" fill="#000">3</text><path d="M703.6 2162.3v5.6M744.7 2162.3v5.6M785.7 2162.3v5.6M826.7 2162.3v5.6M867.8 2162.3v5.6M678.9 2155.2h-5.6M678.9 2118.5h-5.6M678.9 2081.8h-5.6M678.9 2045.1h-5.6" stroke="#000" stroke-width="1.9" fill="none"/><text x="785.1" y="1995.4" font-size="27.2" text-anchor="middle" fill="#000">Cd14</text><text x="646" y="2087.3" font-size="23.3" text-anchor="middle" fill="#000" transform="rotate(-90 646 2087.3)">Expression Level</text><path d="M990.6 2155.2c1.8-.8 3.8-1.7 5.5-2.5s4.2-1.9 5.6-2.8c1.9-1.4 3.7-2.7 4.7-4s1.5-2.1 1.6-3.2c.2-1.5 .4-3.1 .4-4.6c0-8-2.8-15.9-3.3-23.9c-.2-2.6-.4-5.2-.4-7.8s.1-5.5 .4-8.2c.3-4 2.7-7.9 2.9-11.8c.7-8.9 .8-17.8 1.2-26.7h0c.3 8.9 .4 17.8 1.1 26.7c.2 3.9 2.6 7.8 2.9 11.8c.3 2.7 .4 5.4 .4 8.2s-.2 5.2-.4 7.8c-.5 8-3.3 15.9-3.3 23.9c0 1.5 .2 3.1 .4 4.6c.1 1.1 .9 2.2 1.6 3.2s2.8 2.6 4.7 4c1.4 .9 3.6 1.9 5.6 2.8s3.7 1.7 5.6 2.5z" fill="#F8766D" stroke="#2b2b2b" stroke-width="1.45" stroke-linejoin="round"/><path d="M1031.6 2155.2c2.2-1.8 4.7-3.6 6.5-5.3c2.7-2.7 5.2-5.3 6.9-7.9c1.2-2 2.2-4 2.9-6.1c.5-1.3 1.2-2.6 1.2-3.9c0-2 0-4 0-6c0-2.6-.7-5.3-1.2-7.9s-1.1-5.2-1.8-7.8c-1.4-5.2-3.4-10.5-4.7-15.7c-.6-2.7-1.4-5.5-1.6-8.2c-.2-2-.4-4-.4-6.1s.3-4 .6-6c1.1-7.9 5.6-15.7 7.2-23.6c1.1-5.3 2.1-10.6 2.4-16s.4-10 .6-15h0c.2 5 .2 10 .5 15s1.4 10.7 2.5 16c1.5 7.9 6.1 15.7 7.2 23.6c.3 2 .6 4 .6 6s-.2 4.1-.4 6.1c-.3 2.7-1 5.5-1.7 8.2c-1.2 5.2-3.3 10.5-4.6 15.7c-.7 2.6-1.4 5.2-1.9 7.8s-1.1 5.3-1.1 7.9c0 2 0 4 0 6c0 1.3 .6 2.6 1.1 3.9c.7 2.1 1.7 4.1 3 6.1c1.6 2.6 4.2 5.2 6.9 7.9c1.8 1.7 4.3 3.5 6.5 5.3z" fill="#0B8A97" stroke="#2b2b2b" stroke-width="1.45" stroke-linejoin="round"/><path d="M1086.7 2155.2c.3-1.8 .4-3.6 .8-5.3s1.4-4.1 1.9-6.1s1.1-3.8 1.1-5.7c0-1.4-.2-2.9-.4-4.3c-.4-2.6-1.7-5.2-2.6-7.8c-3.7-10.5-9.1-20.9-12.1-31.4c-.8-2.7-1.4-5.5-1.9-8.2s-.9-5.2-.9-7.8s0-5.5 0-8.2c0-1.9 .3-3.8 .6-5.8c.6-4 4.1-8 6.5-12.1c1.1-1.9 3-3.8 3.7-5.7c2.2-6.3 3.1-12.6 4.6-18.9h6.4c1.5 6.3 2.4 12.6 4.6 18.9c.7 1.9 2.6 3.8 3.7 5.7c2.4 4.1 5.9 8.1 6.6 12.1c.3 2 .5 3.9 .5 5.8c0 2.7 0 5.4 0 8.2s-.5 5.2-.9 7.8s-1.1 5.5-1.9 8.2c-3 10.5-8.3 20.9-12.1 31.4c-.9 2.6-2.2 5.2-2.6 7.8c-.2 1.4-.3 2.9-.3 4.3c0 1.9 .6 3.8 1.1 5.7s1.4 4 1.8 6.1s.5 3.5 .8 5.3z" fill="#A3A500" stroke="#2b2b2b" stroke-width="1.45" stroke-linejoin="round"/><path d="M1128.5 2155.2c.3-1.4 .6-2.9 .9-4.3s1.7-3.3 1.9-5s.4-4 .4-6c0-4.7-1-9.3-1.7-13.9c-.4-2.6-.8-5.3-1.5-7.9c-.5-2-1.7-4-2.8-6s-2.6-3.8-3.7-5.7c-1.6-2.8-3-5.5-4.3-8.2s-2.5-5.3-3.1-7.9c-.5-2-1-4-1-6s.7-3.8 1.3-5.7c.9-2.8 3-5.5 4.3-8.2c3.8-7.9 7.9-15.7 10.8-23.6c.5-1.4 1.2-2.8 1.3-4.3c.5-5.5 .6-11.1 .9-16.7h0c.4 5.6 .4 11.2 1 16.7c.1 1.5 .8 2.9 1.3 4.3c2.8 7.9 6.9 15.7 10.8 23.6c1.3 2.7 3.4 5.4 4.2 8.2c.6 1.9 1.3 3.8 1.3 5.7s-.4 4-.9 6c-.6 2.6-2 5.2-3.2 7.9s-2.6 5.4-4.2 8.2c-1.1 1.9-2.7 3.8-3.7 5.7s-2.3 4-2.8 6c-.7 2.6-1.1 5.3-1.5 7.9c-.7 4.6-1.7 9.2-1.7 13.9c0 2 .2 4 .4 6s1.4 3.4 1.8 5s.6 2.9 1 4.3z" fill="#5C5CFF" stroke="#2b2b2b" stroke-width="1.45" stroke-linejoin="round"/><path d="M1161.2 2155.2c.2-1.8 .3-3.6 .5-5.3c.7-4 2.9-7.9 3.8-11.8c.4-2 .9-4.1 .9-6.1c0-1.3-.1-2.6-.2-3.9c-.2-2-1.2-4-1.9-6.1c-1.8-5.2-4.7-10.4-6.3-15.6c-.8-2.8-1.5-5.5-2-8.2s-1.3-5.3-1.3-7.9c0-2 0-4 0-6c0-2.7 .7-5.3 1.3-7.9s1.8-5.2 2.8-7.8c3.5-9.3 8.6-18.6 11.3-27.8c.3-1.1 .5-2.2 .8-3.2h4.8c.2 1 .4 2.1 .7 3.2c2.8 9.2 7.9 18.5 11.4 27.8c1 2.6 2.2 5.2 2.8 7.8s1.3 5.2 1.3 7.9c0 2 0 4 0 6c0 2.6-.8 5.2-1.3 7.9s-1.2 5.4-2.1 8.2c-1.6 5.2-4.5 10.4-6.3 15.6c-.7 2.1-1.7 4.1-1.9 6.1c-.1 1.3-.1 2.6-.1 3.9c0 2 .5 4.1 .9 6.1c.8 3.9 3.1 7.8 3.7 11.8c.3 1.7 .4 3.5 .6 5.3z" fill="#00BF7D" stroke="#2b2b2b" stroke-width="1.45" stroke-linejoin="round"/><path d="M984.4 2012.3V2162.3H1198.7" fill="none" stroke="#000" stroke-width="1.9"/><text x="972.8" y="2163.2" font-size="19.6" text-anchor="end" fill="#000">0</text><text x="972.8" y="2127.6" font-size="19.6" text-anchor="end" fill="#000">1</text><text x="972.8" y="2091.9" font-size="19.6" text-anchor="end" fill="#000">2</text><text x="972.8" y="2056.3" font-size="19.6" text-anchor="end" fill="#000">3</text><path d="M1009.1 2162.3v5.6M1050.2 2162.3v5.6M1091.2 2162.3v5.6M1132.2 2162.3v5.6M1173.3 2162.3v5.6M984.4 2155.2h-5.6M984.4 2119.6h-5.6M984.4 2083.9h-5.6M984.4 2048.3h-5.6" stroke="#000" stroke-width="1.9" fill="none"/><text x="1090.4" y="1995.4" font-size="27.2" text-anchor="middle" fill="#000">Cd63</text><text x="934.5" y="2087.3" font-size="23.3" text-anchor="middle" fill="#000" transform="rotate(-90 934.5 2087.3)">Expression Level</text><path d="M1278 2155.2H1315.1M1296.5 2155.2V2065.1" stroke="#2b2b2b" stroke-width="1.5" fill="none"/><path d="M1319 2155.2c2.2-1.7 4.5-3.5 6.5-5.2c1.5-1.3 3.1-2.7 4.3-4s2.2-2.7 3.1-4s1.9-2.6 2.4-4s1-2.6 1.2-3.9c.2-2.1 .3-4.1 .3-6.2c0-3.2 0-6.5-.2-9.8c-.1-5.3-1.8-10.6-2.4-15.9s-1.1-9.2-1.1-13.8c0-2.1 .1-4.1 .2-6.1c.4-7.9 2.6-15.8 3.2-23.6s.7-15 1.1-22.4h0c.4 7.4 .6 14.9 1.1 22.4s2.8 15.7 3.2 23.6c.1 2 .1 4 .1 6.1c0 4.6-.6 9.2-1.1 13.8s-2.2 10.6-2.4 15.9c-.1 3.3-.2 6.6-.2 9.8c0 2.1 .2 4.1 .4 6.2c.1 1.3 .6 2.6 1.1 3.9s1.5 2.7 2.4 4s2 2.7 3.2 4s2.7 2.7 4.3 4c2 1.7 4.3 3.5 6.5 5.2z" fill="#0B8A97" stroke="#2b2b2b" stroke-width="1.45" stroke-linejoin="round"/><path d="M1372.3 2155.2c.4-1.7 .6-3.5 1.1-5.2c.4-1.3 1.8-2.7 2.4-4s1.6-2.7 1.7-4c.2-2 .4-4.1 .4-6.1s-.4-3.9-.8-5.8c-.5-2.7-1.6-5.3-2.6-8s-2.1-5.3-3.3-8c-2.4-5.3-5.7-10.6-7.8-15.9c-1.1-2.7-2.4-5.3-2.8-8c-.3-1.9-.6-3.9-.6-5.8s.5-3.9 .9-5.8s1.8-4.1 2.8-6.2c2.1-3.9 5.2-7.9 7.1-11.9c.9-1.9 1.7-3.9 2.2-5.8s1.2-4.1 1.5-6.2s.6-4.5 .9-6.7h6.4c.3 2.2 .5 4.5 .9 6.7s.9 4.1 1.5 6.2s1.3 3.9 2.2 5.8c1.9 4 5 8 7.1 11.9c1 2.1 2.3 4.1 2.8 6.2s.9 3.9 .9 5.8s-.3 3.9-.5 5.8c-.4 2.7-1.8 5.3-2.8 8c-2.2 5.3-5.4 10.6-7.9 15.9c-1.2 2.7-2.3 5.3-3.3 8s-2.1 5.3-2.6 8c-.4 1.9-.7 3.8-.7 5.8s.1 4.1 .3 6.1c.2 1.3 1 2.7 1.7 4s2 2.7 2.4 4c.6 1.7 .8 3.5 1.1 5.2z" fill="#A3A500" stroke="#2b2b2b" stroke-width="1.45" stroke-linejoin="round"/><path d="M1413.1 2155.2c.6-1.4 1.2-2.9 1.9-4.3s2.2-3.3 2.8-4.9s1.1-2.7 1.1-4c0-2 0-4.1 0-6.1s-.6-3.9-1.1-5.8c-.7-2.7-2.1-5.3-3.4-8c-2.4-5.3-5.7-10.6-8.2-15.9c-1.2-2.7-2.5-5.4-3.3-8c-.6-2-1.3-3.9-1.5-5.8s-.4-4.1-.4-6.2s.3-3.8 .6-5.8s1.3-3.9 2.2-5.8c1.9-4 5.1-8 6.9-12c1.2-2.6 2.1-5.3 3-7.9s1.6-5.3 2.2-8s1.2-5.3 1.5-8c.8-6.2 1.1-12.4 1.7-18.7h1.1c.6 6.3 .9 12.5 1.7 18.7c.3 2.7 .9 5.3 1.5 8s1.3 5.3 2.2 8s1.8 5.3 3 7.9c1.8 4 5 8 6.8 12c.9 1.9 2 3.9 2.3 5.8s.5 3.9 .5 5.8s-.1 4.1-.3 6.2s-.9 3.8-1.5 5.8c-.9 2.6-2.1 5.3-3.4 8c-2.4 5.3-5.7 10.6-8.2 15.9c-1.2 2.7-2.6 5.3-3.3 8c-.5 1.9-1.1 3.8-1.1 5.8s0 4.1 0 6.1c0 1.3 .6 2.7 1.1 4s2 3.3 2.8 4.9s1.2 2.9 1.8 4.3z" fill="#5C5CFF" stroke="#2b2b2b" stroke-width="1.45" stroke-linejoin="round"/><path d="M1444.5 2155.2c0-1.7 0-3.5 0-5.2c0-6 3.6-12.1 4.6-18.1c.4-1.9 .8-3.9 .8-5.8s-.2-4.1-.4-6.1c-.7-7.3-4.5-14.6-5.9-21.8c-.6-2.7-1.3-5.3-1.3-8c0-3.9 0-7.7 .1-11.6c.1-2.1 .9-4.1 1.5-6.2c.8-2.6 1.8-5.3 2.8-7.9c2-5.3 4.6-10.6 6.5-16c.9-2.5 1.8-5.1 2.4-7.6s1.3-5.5 1.7-8.3s.8-6.5 1.1-9.8h4.5c.4 3.3 .6 6.5 1.1 9.8s1 5.5 1.7 8.3s1.5 5.1 2.4 7.6c1.9 5.4 4.5 10.7 6.5 16c1 2.6 2 5.3 2.8 7.9c.6 2.1 1.4 4.1 1.5 6.2c.1 3.9 .2 7.7 .2 11.6c0 2.7-.8 5.3-1.3 8c-1.5 7.2-5.2 14.5-6 21.8c-.2 2-.3 4-.3 6.1s.4 3.9 .7 5.8c1 6 4.7 12.1 4.7 18.1c0 1.7 0 3.5 0 5.2z" fill="#00BF7D" stroke="#2b2b2b" stroke-width="1.45" stroke-linejoin="round"/><path d="M1271.8 2012.3V2162.3H1486.1" fill="none" stroke="#000" stroke-width="1.9"/><text x="1260.2" y="2163.2" font-size="19.6" text-anchor="end" fill="#000">0</text><text x="1260.2" y="2132.6" font-size="19.6" text-anchor="end" fill="#000">1</text><text x="1260.2" y="2101.9" font-size="19.6" text-anchor="end" fill="#000">2</text><text x="1260.2" y="2071.3" font-size="19.6" text-anchor="end" fill="#000">3</text><text x="1260.2" y="2040.6" font-size="19.6" text-anchor="end" fill="#000">4</text><path d="M1296.5 2162.3v5.6M1337.6 2162.3v5.6M1378.6 2162.3v5.6M1419.6 2162.3v5.6M1460.7 2162.3v5.6M1271.8 2155.2h-5.6M1271.8 2124.6h-5.6M1271.8 2093.9h-5.6M1271.8 2063.3h-5.6M1271.8 2032.6h-5.6" stroke="#000" stroke-width="1.9" fill="none"/><text x="1378.6" y="1995.4" font-size="27.2" text-anchor="middle" fill="#000">Cd9</text><text x="1238.9" y="2087.3" font-size="23.3" text-anchor="middle" fill="#000" transform="rotate(-90 1238.9 2087.3)">Expression Level</text><path d="M109.2 2365.2H146.4M127.8 2365.2V2252.1" stroke="#2b2b2b" stroke-width="1.5" fill="none"/><path d="M150.3 2365.2c.9-.8 1.8-1.7 2.8-2.5c1.3-1.1 3.1-2.1 4.2-3.2c2.8-2.6 5-5.2 6.9-7.8c1-1.3 1.9-2.6 2.4-3.9s1.1-2.6 1.2-3.9c.2-5.4 .3-10.7 .3-16c0-2.7-.3-5.3-.5-7.9c-.8-7.9-3.2-15.9-3.2-23.8c0-2 0-4 0-6.1c0-7.2 3-14.4 3.4-21.7c.6-10.9 .7-21.8 1.1-32.7h0c.4 10.9 .5 21.8 1.1 32.7c.4 7.3 3.3 14.5 3.3 21.7c0 2.1 0 4.1 0 6.1c0 7.9-2.4 15.9-3.1 23.8c-.3 2.6-.6 5.2-.6 7.9c0 5.3 .2 10.6 .4 16c.1 1.3 .6 2.6 1.1 3.9s1.5 2.6 2.4 3.9c1.9 2.6 4.1 5.2 6.9 7.8c1.1 1.1 3 2.1 4.3 3.2c1 .8 1.8 1.7 2.8 2.5z" fill="#0B8A97" stroke="#2b2b2b" stroke-width="1.45" stroke-linejoin="round"/><path d="M192.4 2365.2c.1-1.9 .2-3.8 .4-5.7c.4-3.9 2.6-7.8 2.6-11.7c0-1.3-.2-2.6-.4-3.9c-.5-4.1-2.8-8.1-3.1-12.1s-.6-7.9-.6-11.8c0-2.7 .4-5.4 .8-8.2c1.3-10.5 4.9-21.1 7-31.6c2.7-13.3 5-26.6 7.5-39.9h6.7c2.4 13.3 4.7 26.6 7.4 39.9c2.1 10.5 5.7 21.1 7.1 31.6c.3 2.8 .7 5.5 .7 8.2c0 3.9-.2 7.9-.5 11.8s-2.6 8-3.2 12.1c-.2 1.3-.4 2.6-.4 3.9c0 3.9 2.2 7.8 2.6 11.7c.2 1.9 .3 3.8 .4 5.7z" fill="#A3A500" stroke="#2b2b2b" stroke-width="1.45" stroke-linejoin="round"/><path d="M232.3 2365.2c.2-.8 .2-1.7 .4-2.5c.6-2.4 2.7-4.7 3.7-7.1c.6-1.3 1.5-2.6 1.5-3.9c0-2 0-4 0-6.1c0-3.3-1.8-6.6-1.8-9.9c0-8 0-15.9 0-23.9c0-5.2 1-10.4 1.8-15.6c1.8-10.6 6.3-21.1 8.6-31.7c1.2-5.3 2.4-10.6 3-16c.3-3.8 .4-7.6 .7-11.4h1.5c.2 3.8 .4 7.6 .7 11.4c.5 5.4 1.8 10.7 3 16c2.3 10.6 6.8 21.1 8.6 31.7c.8 5.2 1.8 10.4 1.8 15.6c0 8 0 15.9 0 23.9c0 3.3-1.8 6.6-1.8 9.9c0 2.1 0 4.1 0 6.1c0 1.3 .9 2.6 1.4 3.9c1.1 2.4 3.2 4.7 3.8 7.1c.2 .8 .2 1.7 .3 2.5z" fill="#5C5CFF" stroke="#2b2b2b" stroke-width="1.45" stroke-linejoin="round"/><path d="M276.5 2365.2c.2-1.9 .3-3.8 .6-5.7c.9-5.9 5.1-11.8 5.9-17.8c.3-2 .6-4 .6-6s-.5-4.1-.9-6.1c-1-4.5-4-9-5.6-13.5c-.9-2.6-1.9-5.2-2.4-7.8s-1.1-5.5-1.1-8.2c0-3.9 0-7.8 .1-11.7c.1-2.8 .9-5.5 1.5-8.2c2-8 6.5-15.9 9-23.8c1.6-5.3 3.5-10.5 4-15.7c.4-3.7 .5-7.3 .8-11h5.9c.3 3.7 .4 7.3 .8 11c.5 5.2 2.5 10.4 4.1 15.7c2.4 7.9 7 15.8 8.9 23.8c.7 2.7 1.4 5.4 1.5 8.2c.1 3.9 .2 7.8 .2 11.7c0 2.7-.6 5.5-1.1 8.2s-1.5 5.2-2.5 7.8c-1.5 4.5-4.5 9-5.5 13.5c-.5 2-1 4.1-1 6.1s.3 4 .6 6c.9 6 5.1 11.9 5.9 17.8c.3 1.9 .4 3.8 .6 5.7z" fill="#00BF7D" stroke="#2b2b2b" stroke-width="1.45" stroke-linejoin="round"/><path d="M103.1 2222.3V2372.3H317.4" fill="none" stroke="#000" stroke-width="1.9"/><text x="91.5" y="2373.2" font-size="19.6" text-anchor="end" fill="#000">0</text><text x="91.5" y="2337.6" font-size="19.6" text-anchor="end" fill="#000">1</text><text x="91.5" y="2302.1" font-size="19.6" text-anchor="end" fill="#000">2</text><text x="91.5" y="2266.5" font-size="19.6" text-anchor="end" fill="#000">3</text><text x="91.5" y="2230.9" font-size="19.6" text-anchor="end" fill="#000">4</text><path d="M127.8 2372.3v5.6M168.9 2372.3v5.6M209.9 2372.3v5.6M250.9 2372.3v5.6M292 2372.3v5.6M103.1 2365.2h-5.6M103.1 2329.6h-5.6M103.1 2294.1h-5.6M103.1 2258.5h-5.6M103.1 2222.9h-5.6" stroke="#000" stroke-width="1.9" fill="none"/><text x="208.3" y="2204.8" font-size="27.2" text-anchor="middle" fill="#000">Klf6</text><text x="70.2" y="2297.3" font-size="23.3" text-anchor="middle" fill="#000" transform="rotate(-90 70.2 2297.3)">Expression Level</text><path d="M397.2 2365.2c3.8-1.5 8.3-3 11.2-4.5c1.9-1 3.6-1.9 4.7-2.9c.7-.7 1.5-1.4 1.6-2.1c.3-1.4 .4-2.7 .4-4c0-2.7-1.2-5.3-1.5-8c-.4-4.6-.9-9.2-.9-13.7c0-2.1 .3-4.1 .5-6.1c.2-1.3 .9-2.5 1.2-3.7c.4-2.1 .9-4.1 .9-6.1c.3-24.3 .4-48.6 .5-72.9h0c.2 24.3 .3 48.6 .6 72.9c0 2 .5 4 .9 6.1c.3 1.2 1 2.4 1.2 3.7c.2 2 .5 4 .5 6.1c0 4.5-.5 9.1-.9 13.7c-.3 2.7-1.5 5.3-1.5 8c0 1.3 .1 2.6 .4 4c.1 .7 .9 1.4 1.6 2.1c1.1 1 2.8 1.9 4.7 2.9c2.9 1.5 7.4 3 11.1 4.5z" fill="#F8766D" stroke="#2b2b2b" stroke-width="1.45" stroke-linejoin="round"/><path d="M438.3 2365.2c.6-.9 1.1-1.8 1.8-2.6c2-2.3 5.3-4.6 7.5-6.9c1.2-1.4 2.4-2.7 3.3-4s2.1-2.7 2.6-4s1-2.6 1.1-4s.4-2.6 .4-3.9c0-2-.4-3.9-.7-5.9c-.8-3.9-3.3-7.9-4.5-11.9c-.6-2-1.1-4.1-1.5-6.1s-.7-3.9-.7-5.8c0-4 0-8 0-11.9c0-6-1.9-11.9-1.9-17.8c0-2 0-4.1 0-6.1s.5-3.9 .9-5.8c1.8-8 7.2-15.9 8.4-23.9c.4-2.4 .5-4.9 .8-7.4h2.2c.2 2.5 .4 5 .7 7.4c1.3 8 6.7 15.9 8.4 23.9c.4 1.9 .9 3.9 .9 5.8s0 4.1 0 6.1c0 5.9-1.8 11.8-1.8 17.8c0 3.9 0 7.9 0 11.9c0 1.9-.4 3.9-.8 5.8s-.9 4.1-1.5 6.1c-1.1 4-3.7 8-4.4 11.9c-.4 2-.8 3.9-.8 5.9c0 1.3 .2 2.6 .4 3.9s.6 2.7 1.1 4s1.7 2.7 2.6 4s2.1 2.6 3.4 4c2.2 2.3 5.5 4.6 7.4 6.9c.8 .8 1.3 1.7 1.9 2.6z" fill="#0B8A97" stroke="#2b2b2b" stroke-width="1.45" stroke-linejoin="round"/><path d="M496.4 2365.2c.1-16.4 .2-32.9 .2-49.3c0-1.2-.3-2.5-.6-3.7c-2.1-9.3-9-18.5-13-27.8c-.8-2.1-1.8-4.1-2.4-6.1s-1.3-3.9-1.3-5.8c0-1.4 .3-2.7 .6-4c2-9.3 12-18.6 15.2-27.9c.7-1.9 1.3-3.8 1.5-5.8s.3-3.7 .4-5.5h1.8c.2 1.8 .2 3.7 .4 5.5s.8 3.9 1.5 5.8c3.2 9.3 13.2 18.6 15.3 27.9c.2 1.3 .5 2.6 .5 4c0 1.9-.7 3.8-1.3 5.8s-1.5 4-2.4 6.1c-4 9.3-10.9 18.5-13 27.8c-.3 1.2-.6 2.5-.6 3.7c0 16.4 .1 32.9 .2 49.3z" fill="#A3A500" stroke="#2b2b2b" stroke-width="1.45" stroke-linejoin="round"/><path d="M538 2365.2c0-17 0-34.1 0-51.1c0-1.4-.5-2.7-.9-4c-1.3-4-3.9-8-6-11.9s-4.6-8-6.7-12c-1-1.9-2.2-3.9-2.8-5.8s-1.3-4.1-1.3-6.1c0-1.3 .5-2.6 1-4c.6-1.9 2.2-3.9 3.7-5.8s3.8-4.1 5.6-6.1s3.6-3.9 4.6-5.8s1.8-4.1 2.3-6.1c.2-1.3 .4-2.7 .5-4c.2-3.8 .3-7.6 .4-11.4h1.1c.1 3.8 .2 7.6 .4 11.4c0 1.3 .3 2.7 .5 4c.4 2 1.2 4 2.3 6.1s3 3.9 4.6 5.8s4.1 4.1 5.6 6.1s3 3.9 3.7 5.8c.5 1.4 .9 2.7 .9 4c0 2-.7 4.1-1.3 6.1s-1.7 3.9-2.8 5.8c-2 4-4.5 8-6.6 12s-4.7 7.9-6 11.9c-.4 1.3-.9 2.6-.9 4c0 17 0 34.1 0 51.1z" fill="#5C5CFF" stroke="#2b2b2b" stroke-width="1.45" stroke-linejoin="round"/><path d="M566.4 2365.2c.2-1.9 .3-3.7 .6-5.6c.9-5.9 5.3-11.8 6.8-17.7c.5-2 1-3.9 1.1-5.9c.1-1.4 .2-2.8 .2-4.2c0-1.9-.6-3.9-1.1-5.8c-2.1-8-7.7-15.9-10.2-23.9c-.6-1.9-1.1-3.9-1.5-5.8s-.9-4.1-.9-6.1c0-4 0-7.9 0-11.9s1.6-9.2 2.8-13.8c1.6-6.4 4.3-12.9 6.5-19.3h18.6c2.1 6.4 4.8 12.9 6.5 19.3c1.1 4.6 2.8 9.2 2.8 13.8s0 7.9 0 11.9c0 2-.6 4.1-1 6.1s-.8 3.9-1.4 5.8c-2.6 8-8.2 15.9-10.3 23.9c-.5 1.9-1.1 3.9-1.1 5.8c0 1.4 .1 2.8 .2 4.2c.1 2 .6 3.9 1.1 5.9c1.5 5.9 5.9 11.8 6.9 17.7c.3 1.9 .4 3.7 .5 5.6z" fill="#00BF7D" stroke="#2b2b2b" stroke-width="1.45" stroke-linejoin="round"/><path d="M391.1 2222.3V2372.3H605.4" fill="none" stroke="#000" stroke-width="1.9"/><text x="379.5" y="2373.2" font-size="19.6" text-anchor="end" fill="#000">0</text><text x="379.5" y="2346.7" font-size="19.6" text-anchor="end" fill="#000">1</text><text x="379.5" y="2320.2" font-size="19.6" text-anchor="end" fill="#000">2</text><text x="379.5" y="2293.7" font-size="19.6" text-anchor="end" fill="#000">3</text><text x="379.5" y="2267.2" font-size="19.6" text-anchor="end" fill="#000">4</text><text x="379.5" y="2240.7" font-size="19.6" text-anchor="end" fill="#000">5</text><path d="M415.9 2372.3v5.6M456.9 2372.3v5.6M497.9 2372.3v5.6M538.9 2372.3v5.6M580 2372.3v5.6M391.1 2365.2h-5.6M391.1 2338.7h-5.6M391.1 2312.2h-5.6M391.1 2285.7h-5.6M391.1 2259.2h-5.6M391.1 2232.7h-5.6" stroke="#000" stroke-width="1.9" fill="none"/><text x="496" y="2204.8" font-size="27.2" text-anchor="middle" fill="#000">Krt18</text><text x="358.2" y="2297.3" font-size="23.3" text-anchor="middle" fill="#000" transform="rotate(-90 358.2 2297.3)">Expression Level</text><path d="M685 2365.2H722.2M703.6 2365.2V2303.1" stroke="#2b2b2b" stroke-width="1.5" fill="none"/><path d="M726.1 2365.2H763.3M744.7 2365.2V2262.2" stroke="#2b2b2b" stroke-width="1.5" fill="none"/><path d="M767.1 2365.2c.2-.9 .3-1.7 .6-2.6c.7-2.3 2.9-4.6 4.1-7s2.8-5.1 3.1-7.7c.9-6.6 .8-13.2 1.5-19.8c1.1-10.7 4-21.4 5.2-32c1-8 1.7-16 2.2-23.9s1.2-15.7 1.4-23.6s.1-13 .1-19.4h.8c0 6.4 .1 12.9 .2 19.4s.7 15.7 1.3 23.6s1.3 15.9 2.2 23.9c1.3 10.6 4.1 21.3 5.2 32c.7 6.6 .7 13.2 1.5 19.8c.3 2.6 1.9 5.2 3.2 7.7s3.3 4.7 4.1 7c.2 .9 .3 1.7 .5 2.6z" fill="#A3A500" stroke="#2b2b2b" stroke-width="1.45" stroke-linejoin="round"/><path d="M808.1 2365.2c.7-.9 1.2-1.7 1.9-2.6s2-1.9 2.8-2.9c1.1-1.4 2-2.7 2.8-4.1s1.4-2.7 1.8-4s.9-2.5 1-3.7c1.2-14.6 1.2-29.2 2.2-43.7c.5-6.7 1.7-13.3 2.4-19.9c.9-8.6 1.6-17.2 2.4-25.7h2.6c.8 8.5 1.6 17.1 2.5 25.7c.7 6.6 1.9 13.2 2.4 19.9c1 14.5 1 29.1 2.2 43.7c.1 1.2 .5 2.5 .9 3.7s1.2 2.7 1.9 4s1.7 2.7 2.8 4.1c.8 1 2 1.9 2.8 2.9s1.2 1.7 1.8 2.6z" fill="#5C5CFF" stroke="#2b2b2b" stroke-width="1.45" stroke-linejoin="round"/><path d="M851.4 2365.2c.2-1.8 .3-3.7 .6-5.5c.6-3.9 3.3-7.9 4.6-11.8c.7-2.1 1.6-4.1 1.9-6.2c.2-1.3 .3-2.5 .3-3.7c0-2-.1-3.9-.3-5.9s-1.1-4.2-1.9-6.2c-1.4-4-3.8-7.9-5.2-11.8c-.7-2-1.5-3.9-1.7-5.9c-.3-4-.5-8.1-.5-12.1c0-2 .5-3.9 .9-5.9c1.6-7.2 5.2-14.5 7.4-21.7c1.7-5.3 3.4-10.5 4.7-15.8s1.8-9.1 2.8-13.6h5.6c.9 4.5 1.7 9 2.8 13.6s2.9 10.5 4.6 15.8c2.3 7.2 5.9 14.5 7.4 21.7c.5 2 1 3.9 1 5.9c0 4-.3 8.1-.6 12.1c-.1 2-1 3.9-1.7 5.9c-1.3 3.9-3.8 7.8-5.2 11.8c-.7 2-1.6 4.1-1.8 6.2s-.4 3.9-.4 5.9c0 1.2 .2 2.4 .4 3.7c.3 2.1 1.1 4.1 1.8 6.2c1.4 3.9 4 7.9 4.7 11.8c.3 1.8 .4 3.7 .5 5.5z" fill="#00BF7D" stroke="#2b2b2b" stroke-width="1.45" stroke-linejoin="round"/><path d="M678.9 2222.3V2372.3H893.2" fill="none" stroke="#000" stroke-width="1.9"/><text x="667.3" y="2373.2" font-size="19.6" text-anchor="end" fill="#000">0</text><text x="667.3" y="2336.4" font-size="19.6" text-anchor="end" fill="#000">1</text><text x="667.3" y="2299.7" font-size="19.6" text-anchor="end" fill="#000">2</text><text x="667.3" y="2262.9" font-size="19.6" text-anchor="end" fill="#000">3</text><path d="M703.6 2372.3v5.6M744.7 2372.3v5.6M785.7 2372.3v5.6M826.7 2372.3v5.6M867.8 2372.3v5.6M678.9 2365.2h-5.6M678.9 2328.4h-5.6M678.9 2291.7h-5.6M678.9 2254.9h-5.6" stroke="#000" stroke-width="1.9" fill="none"/><text x="783.4" y="2204.8" font-size="27.2" text-anchor="middle" fill="#000">Klf4</text><text x="646" y="2297.3" font-size="23.3" text-anchor="middle" fill="#000" transform="rotate(-90 646 2297.3)">Expression Level</text><path d="M990.5 2365.2H1027.8M1009.1 2365.2V2290" stroke="#2b2b2b" stroke-width="1.5" fill="none"/><path d="M1031.6 2365.2H1068.8M1050.2 2365.2V2229" stroke="#2b2b2b" stroke-width="1.5" fill="none"/><path d="M1072.6 2365.2c.9-.9 1.7-1.8 2.8-2.6s3.4-2.1 4.6-3.2s2.9-2.4 3.8-3.7s1.8-2.8 2.4-4.2s1.3-2.4 1.3-3.7s0-2.8 0-4.2c0-1.9-1.1-3.8-1.3-5.8s-.6-3.8-.6-5.7s.2-4.2 .4-6.3c.4-4.4 2.4-8.8 3-13.2s1.5-10.9 1.7-16.3c.3-11.2 .3-22.4 .5-33.7h0c.2 11.3 .2 22.5 .6 33.7c.1 5.4 .9 10.9 1.6 16.3s2.6 8.8 3 13.2c.2 2.1 .4 4.2 .4 6.3s-.3 3.8-.6 5.7s-1.3 3.9-1.3 5.8c0 1.4 0 2.8 0 4.2s.8 2.5 1.3 3.7s1.4 2.8 2.4 4.2s2.3 2.5 3.8 3.7s3.3 2.1 4.6 3.2s1.9 1.7 2.8 2.6z" fill="#A3A500" stroke="#2b2b2b" stroke-width="1.45" stroke-linejoin="round"/><path d="M1113.6 2365.2c.7-.9 1.2-1.8 1.9-2.6c1.8-2.3 4.5-4.6 6-6.9c.8-1.4 1.5-2.8 2-4.2s.9-2.4 .9-3.7c0-2.1 0-4.2 0-6.3s-1-3.8-1.1-5.8c-.2-3.8-.4-7.7-.4-11.5c0-10 .9-20 1.9-30c.2-1.9 1.4-3.9 1.9-5.8c1.3-5.4 2.6-10.9 3.3-16.3s1.1-12.3 1.7-18.4h1.1c.6 6.1 .9 12.3 1.7 18.4s2 10.9 3.3 16.3c.5 1.9 1.7 3.9 1.9 5.8c1 10 1.8 20 1.8 30c0 3.8-.1 7.7-.3 11.5c-.1 2-1.1 3.9-1.1 5.8s0 4.2 0 6.3c0 1.3 .5 2.5 .9 3.7s1.2 2.8 2 4.2c1.5 2.3 4.2 4.6 6 6.9c.7 .8 1.2 1.7 1.8 2.6z" fill="#5C5CFF" stroke="#2b2b2b" stroke-width="1.45" stroke-linejoin="round"/><path d="M1154.7 2365.2c.3-.9 .5-1.8 .9-2.6c1.2-2.3 4.4-4.6 6.1-6.9s3.9-5.2 5.1-7.9s2.4-5.2 2.8-7.8c.2-2.2 .5-4.3 .5-6.4c0-10.5-.9-21-.9-31.5s3.5-18.6 3.5-27.9c0-6.8 0-13.7 0-20.5h1.1c0 6.8 0 13.7 0 20.5c0 9.3 3.6 18.6 3.6 27.9s-1 21-1 31.5c0 2.1 .3 4.2 .6 6.4c.4 2.6 1.6 5.2 2.8 7.8s3 5.3 5 7.9s5 4.6 6.1 6.9c.5 .8 .7 1.7 1 2.6z" fill="#00BF7D" stroke="#2b2b2b" stroke-width="1.45" stroke-linejoin="round"/><path d="M984.4 2222.3V2372.3H1198.7" fill="none" stroke="#000" stroke-width="1.9"/><text x="972.8" y="2373.2" font-size="19.6" text-anchor="end" fill="#000">0</text><text x="972.8" y="2320.6" font-size="19.6" text-anchor="end" fill="#000">1</text><text x="972.8" y="2268" font-size="19.6" text-anchor="end" fill="#000">2</text><path d="M1009.1 2372.3v5.6M1050.2 2372.3v5.6M1091.2 2372.3v5.6M1132.2 2372.3v5.6M1173.3 2372.3v5.6M984.4 2365.2h-5.6M984.4 2312.6h-5.6M984.4 2260h-5.6" stroke="#000" stroke-width="1.9" fill="none"/><text x="1089.4" y="2204.8" font-size="27.2" text-anchor="middle" fill="#000">Klf5</text><text x="934.5" y="2297.3" font-size="23.3" text-anchor="middle" fill="#000" transform="rotate(-90 934.5 2297.3)">Expression Level</text><path d="M1278 2365.2H1315.1M1296.5 2365.2V2270.2" stroke="#2b2b2b" stroke-width="1.5" fill="none"/><path d="M1319 2365.2H1356.2M1337.6 2365.2V2229.5" stroke="#2b2b2b" stroke-width="1.5" fill="none"/><path d="M1360 2365.2c.6-.9 1.1-1.8 1.9-2.7s2.5-1.8 3.3-2.7c1.3-1.4 2.3-2.7 3.2-4.1s1.8-2.7 2.4-4.1s1.2-2.7 1.3-4c.2-2 .4-4 .4-5.9c0-8.6-.8-17.2-.8-25.8c0-2.6 .3-5.1 .6-7.7c.5-5.3 2.2-10.6 3-15.8s1.2-10.6 1.8-15.9h3c.6 5.3 1.1 10.6 1.9 15.9s2.4 10.5 2.9 15.8c.3 2.6 .6 5.1 .6 7.7c0 8.6-.8 17.2-.8 25.8c0 1.9 .2 3.9 .4 5.9c.2 1.3 .8 2.7 1.3 4s1.5 2.7 2.4 4.1s1.9 2.7 3.2 4.1c.9 .9 2.6 1.8 3.4 2.7s1.2 1.8 1.8 2.7z" fill="#A3A500" stroke="#2b2b2b" stroke-width="1.45" stroke-linejoin="round"/><path d="M1401 2365.2c1-.9 1.7-1.8 2.8-2.7s3.3-1.8 4.3-2.7c1.6-1.4 2.8-2.7 3.7-4.1s1.8-2.7 2.3-4.1s1.1-2.7 1.1-4c0-3.2-1.4-6.4-1.5-9.5c-.1-2.2-.2-4.3-.2-6.4c0-15.8 3.8-31.6 4.7-47.5c0-1.8 .1-3.6 .1-5.4h2.6c.1 1.8 .1 3.6 .2 5.4c.8 15.9 4.7 31.7 4.7 47.5c0 2.1-.1 4.2-.2 6.4c-.2 3.1-1.5 6.3-1.5 9.5c0 1.3 .6 2.7 1.1 4s1.3 2.7 2.3 4.1s2.1 2.7 3.7 4.1c1 .9 3.1 1.8 4.2 2.7s1.9 1.8 2.8 2.7z" fill="#5C5CFF" stroke="#2b2b2b" stroke-width="1.45" stroke-linejoin="round"/><path d="M1442.1 2365.2c.5-.9 .8-1.8 1.5-2.7s1.8-1.8 2.6-2.7c2.1-2.7 4.1-5.5 5.5-8.2s3-5.1 3.4-7.7c.3-1.9 .5-3.9 .5-5.8c0-7.4-.5-14.8-.5-22.2c0-2 .2-3.9 .4-5.9c.3-3.9 1.7-7.8 2.2-11.8s1.2-9.3 1.3-14c.1-5.9 .1-11.7 .2-17.6h3c0 5.9 0 11.7 .1 17.6c.1 4.7 .8 9.4 1.3 14s1.9 7.9 2.3 11.8c.2 2 .3 3.9 .3 5.9c0 7.4-.5 14.8-.5 22.2c0 1.9 .2 3.9 .5 5.8c.4 2.6 2 5.2 3.4 7.7s3.4 5.5 5.6 8.2c.7 .9 2 1.8 2.6 2.7s1 1.8 1.5 2.7z" fill="#00BF7D" stroke="#2b2b2b" stroke-width="1.45" stroke-linejoin="round"/><path d="M1271.8 2222.3V2372.3H1486.1" fill="none" stroke="#000" stroke-width="1.9"/><text x="1260.2" y="2373.2" font-size="19.6" text-anchor="end" fill="#000">0</text><text x="1260.2" y="2328" font-size="19.6" text-anchor="end" fill="#000">1</text><text x="1260.2" y="2282.7" font-size="19.6" text-anchor="end" fill="#000">2</text><text x="1260.2" y="2237.5" font-size="19.6" text-anchor="end" fill="#000">3</text><path d="M1296.5 2372.3v5.6M1337.6 2372.3v5.6M1378.6 2372.3v5.6M1419.6 2372.3v5.6M1460.7 2372.3v5.6M1271.8 2365.2h-5.6M1271.8 2320h-5.6M1271.8 2274.7h-5.6M1271.8 2229.5h-5.6" stroke="#000" stroke-width="1.9" fill="none"/><text x="1377" y="2204.8" font-size="27.2" text-anchor="middle" fill="#000">Klf9</text><text x="1238.9" y="2297.3" font-size="23.3" text-anchor="middle" fill="#000" transform="rotate(-90 1238.9 2297.3)">Expression Level</text><path d="M109.2 2578.5H146.4M127.8 2578.5V2468.3" stroke="#2b2b2b" stroke-width="1.5" fill="none"/><path d="M150.3 2578.5c.9-.9 1.6-1.9 2.8-2.8s3.1-1.9 4.2-2.9c1.7-1.3 2.9-2.7 4.1-4s2.5-2.6 3.4-4s1.8-2.6 2.2-4s.9-2.6 1-3.9c.1-3 .1-5.9 .1-8.9c0-9.9-2.4-19.9-2.4-29.9c0-22.3 2.1-44.6 3.2-66.9h0c1 22.3 3.1 44.6 3.1 66.9c0 10-2.4 20-2.4 29.9c0 3 .1 5.9 .2 8.9c.1 1.3 .5 2.6 .9 3.9s1.4 2.7 2.3 4s2.1 2.7 3.3 4s2.5 2.7 4.1 4c1.2 1 3.2 1.9 4.3 2.9s1.8 1.9 2.8 2.8z" fill="#0B8A97" stroke="#2b2b2b" stroke-width="1.45" stroke-linejoin="round"/><path d="M192.2 2578.5c.2-1.6 .3-3.2 .6-4.8c.8-4 4.8-8 6.9-12c1-1.9 2.2-3.8 2.8-5.7s1.1-4 1.3-6c.3-4 .5-7.9 .5-11.9s-1.2-9.3-2.2-14c-1.7-7.9-6-15.9-8-23.9c-1.2-4.5-2.8-9.1-2.8-13.7c0-2 0-3.9 0-5.9s.5-4 .9-6s1.1-4 1.9-6c1.6-4 4.5-8 6.5-12c1-1.9 2.1-3.9 2.8-5.9c1-2.7 1.6-5.3 2.4-8h8.2c.8 2.7 1.4 5.3 2.4 8c.8 2 1.8 4 2.8 5.9c2 4 4.9 8 6.5 12c.8 2 1.5 4 1.9 6s.9 4 .9 6s0 3.9 0 5.9c0 4.6-1.6 9.2-2.8 13.7c-2 8-6.3 16-8 23.9c-1 4.7-2.2 9.3-2.2 14s.2 7.9 .5 11.9c.2 2 .7 4 1.4 6s1.7 3.8 2.7 5.7c2.1 4 6.2 8 6.9 12c.3 1.6 .4 3.2 .6 4.8z" fill="#A3A500" stroke="#2b2b2b" stroke-width="1.45" stroke-linejoin="round"/><path d="M232.3 2578.5c1-.9 1.7-1.9 2.8-2.8s3.2-1.9 4.3-2.9c1.5-1.3 2.8-2.7 3.7-4s1.9-2.6 2.3-4c.7-2.9 1.3-5.8 1.4-8.8c.8-12.6 .8-25.2 1.4-37.9c.4-9.8 1.7-19.7 2.2-29.6c.2-5 .4-10 .5-15.1h0c.2 5.1 .3 10.1 .6 15.1c.5 9.9 1.8 19.8 2.2 29.6c.6 12.7 .6 25.3 1.3 37.9c.2 3 .8 5.9 1.5 8.8c.4 1.4 1.3 2.7 2.3 4s2.1 2.7 3.7 4c1.1 1 3.1 1.9 4.3 2.9s1.8 1.9 2.7 2.8z" fill="#5C5CFF" stroke="#2b2b2b" stroke-width="1.45" stroke-linejoin="round"/><path d="M273.4 2578.5H310.6M292 2578.5V2509.6" stroke="#2b2b2b" stroke-width="1.5" fill="none"/><path d="M103.1 2435.6V2585.6H317.4" fill="none" stroke="#000" stroke-width="1.9"/><text x="91.5" y="2586.5" font-size="19.6" text-anchor="end" fill="#000">0</text><text x="91.5" y="2558" font-size="19.6" text-anchor="end" fill="#000">1</text><text x="91.5" y="2529.6" font-size="19.6" text-anchor="end" fill="#000">2</text><text x="91.5" y="2501.1" font-size="19.6" text-anchor="end" fill="#000">3</text><text x="91.5" y="2472.6" font-size="19.6" text-anchor="end" fill="#000">4</text><path d="M127.8 2585.6v5.6M168.9 2585.6v5.6M209.9 2585.6v5.6M250.9 2585.6v5.6M292 2585.6v5.6M103.1 2578.5h-5.6M103.1 2550h-5.6M103.1 2521.6h-5.6M103.1 2493.1h-5.6M103.1 2464.6h-5.6" stroke="#000" stroke-width="1.9" fill="none"/><text x="209.4" y="2418.8" font-size="27.2" text-anchor="middle" fill="#000">Meg3</text><text x="70.2" y="2510.6" font-size="23.3" text-anchor="middle" fill="#000" transform="rotate(-90 70.2 2510.6)">Expression Level</text><path d="M397.2 2578.5H434.5M415.9 2578.5V2475.7" stroke="#2b2b2b" stroke-width="1.5" fill="none"/><path d="M438.3 2578.5c1.1-.9 2.1-1.9 3.3-2.8s3.1-1.9 4.1-2.9c2.9-2.6 5.3-5.2 7.1-7.9c.9-1.3 1.8-2.6 2.2-3.9s1-2.8 1-4.3c0-2.1-.1-4.3-.2-6.5c-.4-8-3-16-3.8-24c-.1-1.9-.3-3.9-.3-5.9s.2-4.1 .3-6.2c.7-7.9 2.7-15.8 3.6-23.7c.3-2.7 .6-5.3 .7-8c.3-7.2 .4-14.5 .6-21.7h0c.2 7.2 .2 14.5 .5 21.7c.1 2.7 .5 5.3 .8 8c.9 7.9 2.8 15.8 3.5 23.7c.2 2.1 .4 4.1 .4 6.2s-.2 4-.4 5.9c-.7 8-3.3 16-3.7 24c-.1 2.2-.2 4.4-.2 6.5c0 1.5 .5 2.9 .9 4.3s1.4 2.6 2.3 3.9c1.8 2.7 4.1 5.3 7 7.9c1.1 1 2.9 1.9 4.1 2.9s2.3 1.9 3.4 2.8z" fill="#0B8A97" stroke="#2b2b2b" stroke-width="1.45" stroke-linejoin="round"/><path d="M488.6 2578.5c.2-1.6 .3-3.2 .6-4.8c.6-4 2.2-7.9 2.8-11.9c.1-1.3 .3-2.6 .3-3.9c0-2-.6-4-1.1-6c-.6-2.6-1.8-5.2-2.6-7.9c-1.6-5.2-3.2-10.5-4.3-15.8c-2.1-10.5-5-21.1-5-31.6c0-2.1 0-4.2 0-6.2s.5-4 .9-6s1.8-3.9 2.8-5.9c2.1-4 5.1-7.9 7.1-11.9c1-1.9 2-3.9 2.6-5.9s1.2-4 1.5-5.9c.7-4 1-7.9 1.5-11.9h4.4c.5 4 .9 7.9 1.5 11.9c.4 1.9 .9 3.9 1.5 5.9s1.6 4 2.6 5.9c2 4 5 7.9 7.1 11.9c1 2 2.3 3.9 2.8 5.9s.9 4 .9 6s0 4.1 0 6.2c0 10.5-2.9 21.1-5 31.6c-1.1 5.3-2.7 10.6-4.3 15.8c-.8 2.7-2 5.3-2.6 7.9c-.5 2-1.1 4-1.1 6c0 1.3 .2 2.6 .4 3.9c.5 4 2.1 7.9 2.8 11.9c.2 1.6 .3 3.2 .5 4.8z" fill="#A3A500" stroke="#2b2b2b" stroke-width="1.45" stroke-linejoin="round"/><path d="M532.4 2578.5c.3-3.6 1-7.2 1-10.7c0-2 0-4 0-6c0-9.9-7.8-19.7-10.6-29.6c-.8-2.7-1.5-5.3-1.9-7.9c-.3-2-.6-4-.6-6c0-4 .2-8.1 .4-12.1c.1-2 .7-4 1.1-6c.6-2.6 1.4-5.2 2.3-7.9c2.7-7.9 7.4-15.8 10.2-23.7c1.1-3.2 1.9-6.4 2.8-9.6h3.7c.9 3.2 1.7 6.4 2.8 9.6c2.7 7.9 7.5 15.8 10.2 23.7c.9 2.7 1.7 5.3 2.3 7.9c.4 2 1 4 1.1 6c.2 4 .3 8.1 .3 12.1c0 2-.3 4-.5 6c-.4 2.6-1.1 5.2-1.9 7.9c-2.8 9.9-10.6 19.7-10.6 29.6c0 2 0 4 0 6c0 3.5 .6 7.1 .9 10.7z" fill="#5C5CFF" stroke="#2b2b2b" stroke-width="1.45" stroke-linejoin="round"/><path d="M564 2578.5c0-1.6 0-3.2 0-4.8c0-4 1.9-7.9 2.6-11.9c.3-1.9 .7-3.9 .7-5.9s0-4 0-5.9s-.4-4-.7-6c-.7-3.9-3-7.9-3.9-11.8c-.5-2-1.1-4-1.1-6c-.2-4-.2-8.1-.2-12.1c0-2 .5-4 .9-5.9c1-5.3 2.6-10.6 3.7-15.9c1.6-7.9 2.7-15.8 4.3-23.7c1.2-5.8 2.7-11.7 4.1-17.5h11.2c1.3 5.8 2.9 11.7 4 17.5c1.7 7.9 2.7 15.8 4.3 23.7c1.1 5.3 2.7 10.6 3.7 15.9c.4 1.9 1 3.9 1 5.9c0 4-.1 8.1-.2 12.1c-.1 2-.7 4-1.1 6c-1 3.9-3.2 7.9-3.9 11.8c-.4 2-.8 4-.8 6s0 3.9 0 5.9s.4 4 .8 5.9c.6 4 2.6 7.9 2.6 11.9c0 1.6 0 3.2 0 4.8z" fill="#00BF7D" stroke="#2b2b2b" stroke-width="1.45" stroke-linejoin="round"/><path d="M391.1 2435.6V2585.6H605.4" fill="none" stroke="#000" stroke-width="1.9"/><text x="379.5" y="2586.5" font-size="19.6" text-anchor="end" fill="#000">0</text><text x="379.5" y="2558.2" font-size="19.6" text-anchor="end" fill="#000">1</text><text x="379.5" y="2530" font-size="19.6" text-anchor="end" fill="#000">2</text><text x="379.5" y="2501.8" font-size="19.6" text-anchor="end" fill="#000">3</text><text x="379.5" y="2473.5" font-size="19.6" text-anchor="end" fill="#000">4</text><text x="379.5" y="2445.2" font-size="19.6" text-anchor="end" fill="#000">5</text><path d="M415.9 2585.6v5.6M456.9 2585.6v5.6M497.9 2585.6v5.6M538.9 2585.6v5.6M580 2585.6v5.6M391.1 2578.5h-5.6M391.1 2550.2h-5.6M391.1 2522h-5.6M391.1 2493.8h-5.6M391.1 2465.5h-5.6M391.1 2437.2h-5.6" stroke="#000" stroke-width="1.9" fill="none"/><text x="495.7" y="2418.8" font-size="27.2" text-anchor="middle" fill="#000">Neat1</text><text x="358.2" y="2510.6" font-size="23.3" text-anchor="middle" fill="#000" transform="rotate(-90 358.2 2510.6)">Expression Level</text><path d="M685 2578.5c1.3-.6 2.4-1.2 3.8-1.8s4.1-1.4 5.6-2.1c2-.9 4.5-1.9 5.2-2.9s1.3-2 1.3-3c0-4.3-3.8-8.5-3.8-12.8c0-1.3 .2-2.7 .4-4c.6-4 4-8 4.8-11.9c.3-1.3 .6-2.6 .6-3.9c.5-24.8 .5-49.6 .7-74.4h0c.3 24.8 .3 49.6 .8 74.4c0 1.3 .3 2.6 .6 3.9c.8 3.9 4.2 7.9 4.8 11.9c.2 1.3 .4 2.7 .4 4c0 4.3-3.8 8.5-3.8 12.8c0 1 .6 2 1.3 3s3.2 2 5.2 2.9c1.5 .7 4 1.4 5.6 2.1s2.5 1.2 3.7 1.8z" fill="#F8766D" stroke="#2b2b2b" stroke-width="1.45" stroke-linejoin="round"/><path d="M743.8 2578.5c0-8.2 0-16.3 0-24.5c0-2.1-.5-4.1-1-6.1c-.8-4-3.7-7.9-4.6-11.8s-2.1-7.9-2.1-11.9c0-1.3 .1-2.7 .2-4c.3-4 2.6-7.9 2.8-11.9s.4-8 .4-11.9c0-2-.4-4-.8-6s-1.3-3.9-2.4-5.9s-3.5-4-5-6s-3.1-4-3.9-5.9c-.6-1.4-1.3-2.7-1.3-4.1s.2-2.5 .5-3.8s1.9-2.7 3.2-4c2.5-2.7 6.9-5.3 9.3-7.9c1.2-1.4 2.2-2.7 3-4c.5-1 1-2 1.3-3s.3-2 .5-3h1.5c.2 1 .3 2 .6 3s.7 2 1.3 3c.7 1.3 1.7 2.6 3 4c2.3 2.6 6.8 5.2 9.3 7.9c1.2 1.3 2.8 2.6 3.1 4s.6 2.6 .6 3.8s-.7 2.7-1.3 4.1c-.9 1.9-2.5 3.9-3.9 5.9s-4 4-5.1 6s-2 3.9-2.4 5.9s-.7 4-.7 6c0 3.9 .1 7.9 .4 11.9s2.4 7.9 2.7 11.9c.2 1.3 .2 2.7 .2 4c0 4-1.1 8-2 11.9s-3.8 7.8-4.7 11.8c-.4 2-.9 4-.9 6.1c0 8.2 0 16.3 0 24.5z" fill="#0B8A97" stroke="#2b2b2b" stroke-width="1.45" stroke-linejoin="round"/><path d="M783.1 2578.5c.1-1.6 .4-3.2 .4-4.7c0-4-1-8-1-11.9s0-8 0-11.9c0-6 2.7-11.9 2.7-17.9c0-4.6-.2-9.2-.4-13.8s-1.8-8-3.2-11.9c-.7-2-1.8-4-3-6c-2.9-5.3-7.9-10.6-10.2-15.9c-.6-1.4-1.3-2.7-1.3-4.1s.3-2.5 .6-3.8s.9-2.7 1.6-4c2.9-5.3 8.7-10.7 12.3-16c.7-1 1.3-2 1.9-2.9h4.4c.7 .9 1.2 1.9 1.9 2.9c3.7 5.3 9.4 10.7 12.3 16c.7 1.3 1.4 2.6 1.7 4s.5 2.6 .5 3.8s-.7 2.7-1.3 4.1c-2.3 5.3-7.2 10.6-10.2 15.9c-1.1 2-2.3 4-3 6c-1.4 3.9-3 7.9-3.2 11.9s-.3 9.2-.3 13.8c0 6 2.6 11.9 2.6 17.9c0 3.9 0 7.9 0 11.9s-1 7.9-1 11.9c0 1.5 .3 3.1 .4 4.7z" fill="#A3A500" stroke="#2b2b2b" stroke-width="1.45" stroke-linejoin="round"/><path d="M824.9 2578.5c.4-3.6 1.1-7.1 1.1-10.7c0-13.2 0-26.5 0-39.7c0-1.3-.2-2.6-.4-3.9c-.9-5.9-3.5-11.9-5.6-17.8c-1.4-4-2.9-8-4.8-11.9s-4.5-6.7-5.8-10c-.6-1.7-1.3-3.3-1.3-4.9c0-1 .3-2 .6-3c.4-1.4 1.3-2.7 2.2-4c1.8-2.7 4.6-5.3 6.5-7.9s3.8-5.4 5.2-8.1c.8-1.3 1.5-2.5 1.9-3.8c.8-2.4 1.1-4.7 1.7-7h1.1c.6 2.3 .9 4.6 1.7 7c.4 1.3 1.1 2.5 1.8 3.8c1.5 2.7 3.3 5.4 5.2 8.1s4.8 5.2 6.6 7.9c.8 1.3 1.8 2.6 2.2 4c.3 1 .5 2 .5 3c0 1.6-.7 3.2-1.3 4.9c-1.2 3.3-4.1 6.6-5.7 10s-3.5 7.9-4.9 11.9c-2.1 5.9-4.7 11.9-5.5 17.8c-.2 1.3-.4 2.6-.4 3.9c0 13.2 0 26.5 0 39.7c0 3.6 .7 7.1 1.1 10.7z" fill="#5C5CFF" stroke="#2b2b2b" stroke-width="1.45" stroke-linejoin="round"/><path d="M863.5 2578.5c.1-.9 .1-1.9 .2-2.8c.4-4 3.1-7.9 3.1-11.9c.2-14.5 .2-29.1 .2-43.6c0-1.4-.4-2.7-.7-4c-.5-2-1.4-4-2.3-6c-3.3-7.9-8.3-15.9-11.7-23.8c-.8-2-1.8-4-2.2-6s-.9-3.9-.9-5.9c0-1.3 0-2.6 0-3.9s.7-2.6 1.3-4s1.4-2.7 2.4-4c1.7-2.3 4-4.6 6.5-6.8c.5-.5 1.2-1 1.9-1.4h13c.6 .4 1.3 .9 1.8 1.4c2.6 2.2 4.9 4.5 6.5 6.8c1 1.3 1.9 2.7 2.5 4s1.3 2.7 1.3 4s0 2.6 0 3.9c0 2-.5 4-1 5.9s-1.3 4-2.2 6c-3.4 7.9-8.3 15.9-11.7 23.8c-.9 2-1.8 4-2.2 6c-.4 1.3-.8 2.6-.8 4c0 14.5 .1 29.1 .2 43.6c0 4 2.7 7.9 3.2 11.9c.1 .9 .1 1.9 .1 2.8z" fill="#00BF7D" stroke="#2b2b2b" stroke-width="1.45" stroke-linejoin="round"/><path d="M678.9 2435.6V2585.6H893.2" fill="none" stroke="#000" stroke-width="1.9"/><text x="667.3" y="2586.5" font-size="19.6" text-anchor="end" fill="#000">0</text><text x="667.3" y="2551.5" font-size="19.6" text-anchor="end" fill="#000">2</text><text x="667.3" y="2516.5" font-size="19.6" text-anchor="end" fill="#000">4</text><text x="667.3" y="2481.4" font-size="19.6" text-anchor="end" fill="#000">6</text><text x="667.3" y="2446.4" font-size="19.6" text-anchor="end" fill="#000">8</text><path d="M703.6 2585.6v5.6M744.7 2585.6v5.6M785.7 2585.6v5.6M826.7 2585.6v5.6M867.8 2585.6v5.6M678.9 2578.5h-5.6M678.9 2543.5h-5.6M678.9 2508.5h-5.6M678.9 2473.4h-5.6M678.9 2438.4h-5.6" stroke="#000" stroke-width="1.9" fill="none"/><text x="783" y="2418.8" font-size="27.2" text-anchor="middle" fill="#000">Malat1</text><text x="646" y="2510.6" font-size="23.3" text-anchor="middle" fill="#000" transform="rotate(-90 646 2510.6)">Expression Level</text><path d="M990.5 2578.5H1027.8M1009.1 2578.5V2483.9" stroke="#2b2b2b" stroke-width="1.5" fill="none"/><path d="M1031.6 2578.5H1068.8M1050.2 2578.5V2442.5" stroke="#2b2b2b" stroke-width="1.5" fill="none"/><path d="M1072.6 2578.5c2.8-1.9 6.1-3.8 8.4-5.8c1.5-1.2 2.8-2.5 3.7-3.8s2.2-2.8 2.4-4.2s.4-2.4 .4-3.6c0-1.8-.2-3.6-.4-5.4c-.4-4-1.8-7.9-1.8-11.9c0-2 0-4 0-6c0-6.4 2.4-12.8 3.1-19.2s1.9-16 2.3-24s.3-15.1 .5-22.7h0c.2 7.6 .3 15.2 .6 22.7s1.2 16 2.2 24s3.2 12.8 3.2 19.2c0 2 0 4 0 6c0 4-1.5 7.9-1.9 11.9c-.2 1.8-.4 3.6-.4 5.4c0 1.2 .2 2.4 .4 3.6s1.4 2.8 2.4 4.2s2.3 2.6 3.7 3.8c2.3 2 5.6 3.9 8.4 5.8z" fill="#A3A500" stroke="#2b2b2b" stroke-width="1.45" stroke-linejoin="round"/><path d="M1113.6 2578.5c3.1-1.9 7-3.8 9.3-5.8c1.6-1.2 2.8-2.5 3.8-3.8s1.9-2.8 2.4-4.2s.9-2.4 .9-3.6c0-1.8-.3-3.6-.6-5.4s-1-4-1.3-6s-.5-3.9-.5-5.9s.1-4 .2-6c.2-4.6 1.2-9.2 1.6-13.8c1-10.6 1.9-21.2 2.3-31.8s.4-17.5 .5-26.3h0c.2 8.8 .3 17.6 .6 26.3s1.3 21.2 2.2 31.8c.4 4.6 1.5 9.2 1.7 13.8c.1 2 .2 4 .2 6s-.3 4-.6 5.9s-1 4-1.3 6s-.5 3.6-.5 5.4c0 1.2 .5 2.4 .9 3.6s1.4 2.8 2.4 4.2s2.2 2.6 3.7 3.8c2.4 2 6.2 3.9 9.3 5.8z" fill="#5C5CFF" stroke="#2b2b2b" stroke-width="1.45" stroke-linejoin="round"/><path d="M1154.7 2578.5c3.7-1.3 8.8-2.5 11.1-3.8c1.7-.9 2.9-1.9 3.8-2.8s1.8-2 2.2-3s.7-2 .7-3c.1-11.2 .2-22.3 .2-33.5c0-5.8-1.5-11.6-1.5-17.4c0-3.6 1.3-7.2 1.3-10.8c.3-16.9 .3-33.9 .4-50.9h.7c.2 17 .2 34 .4 50.9c.1 3.6 1.3 7.2 1.3 10.8c0 5.8-1.5 11.6-1.5 17.4c0 11.2 .1 22.3 .2 33.5c0 1 .4 2 .8 3s1.2 2 2.2 3s2 1.9 3.7 2.8c2.3 1.3 7.4 2.5 11.2 3.8z" fill="#00BF7D" stroke="#2b2b2b" stroke-width="1.45" stroke-linejoin="round"/><path d="M984.4 2435.6V2585.6H1198.7" fill="none" stroke="#000" stroke-width="1.9"/><text x="972.8" y="2586.5" font-size="19.6" text-anchor="end" fill="#000">0.0</text><text x="972.8" y="2556.6" font-size="19.6" text-anchor="end" fill="#000">0.5</text><text x="972.8" y="2526.6" font-size="19.6" text-anchor="end" fill="#000">1.0</text><text x="972.8" y="2496.7" font-size="19.6" text-anchor="end" fill="#000">1.5</text><text x="972.8" y="2466.7" font-size="19.6" text-anchor="end" fill="#000">2.0</text><path d="M1009.1 2585.6v5.6M1050.2 2585.6v5.6M1091.2 2585.6v5.6M1132.2 2585.6v5.6M1173.3 2585.6v5.6M984.4 2578.5h-5.6M984.4 2548.6h-5.6M984.4 2518.6h-5.6M984.4 2488.7h-5.6M984.4 2458.7h-5.6" stroke="#000" stroke-width="1.9" fill="none"/><text x="1090.3" y="2418.8" font-size="27.2" text-anchor="middle" fill="#000">1700020I14Rik</text><text x="934.5" y="2510.6" font-size="23.3" text-anchor="middle" fill="#000" transform="rotate(-90 934.5 2510.6)">Expression Level</text><path d="M1278 2578.5H1315.1M1296.5 2578.5V2479.9" stroke="#2b2b2b" stroke-width="1.5" fill="none"/><path d="M1319 2578.5H1356.2M1337.6 2578.5V2457.3" stroke="#2b2b2b" stroke-width="1.5" fill="none"/><path d="M1360 2578.5c2-1.9 4.3-3.8 6-5.6c1.1-1.4 2.6-2.7 2.9-4s.8-2.9 .8-4.3s-.8-2.6-1.3-3.9s-2-3.2-2.4-4.8c-.6-2-1.2-4-1.3-6.1c-.1-1.3-.2-2.6-.2-3.9c0-2 .6-4 1.1-6.1c1.9-7.8 6.1-15.6 8.2-23.4c1-4.1 2-8.1 2.6-12.2s1.1-9.8 1.7-14.8h1.1c.5 5 .9 9.9 1.6 14.8s1.6 8.1 2.6 12.2c2.1 7.8 6.3 15.6 8.2 23.4c.5 2.1 1.1 4.1 1.1 6.1c0 1.3 0 2.6-.1 3.9c-.2 2.1-.7 4.1-1.3 6.1c-.5 1.6-1.8 3.2-2.5 4.8s-1.3 2.6-1.3 3.9s.4 2.9 .8 4.3s1.8 2.6 3 4c1.6 1.8 3.9 3.7 5.9 5.6z" fill="#A3A500" stroke="#2b2b2b" stroke-width="1.45" stroke-linejoin="round"/><path d="M1401 2578.5c2-1.9 4.3-3.8 6-5.6c1.1-1.4 2.3-2.7 3-4s1.5-2.9 1.8-4.3c.2-.9 .4-1.7 .4-2.6c0-3.3-3.8-6.7-5.2-10c-.9-2-1.8-4.1-2.2-6.1s-1-4-1-6.1c0-1.3 0-2.6 0-3.9c0-1.9 .8-3.7 1.3-5.6c2.3-8 6.6-16 9-23.9c.6-2.1 1.1-4.1 1.4-6.1c.8-3.9 1.5-7.8 1.9-11.7s.6-8.7 .9-13.1h2.6c.4 4.4 .5 8.7 1 13.1s1.1 7.8 1.8 11.7c.4 2 .9 4 1.5 6.1c2.4 7.9 6.7 15.9 8.9 23.9c.6 1.9 1.3 3.7 1.3 5.6c0 1.3 0 2.6 0 3.9c0 2.1-.4 4.1-.9 6.1s-1.3 4.1-2.2 6.1c-1.4 3.3-5.2 6.7-5.2 10c0 .9 .2 1.7 .4 2.6c.3 1.4 1 2.9 1.8 4.3s1.8 2.6 3 4c1.7 1.8 4 3.7 5.9 5.6z" fill="#5C5CFF" stroke="#2b2b2b" stroke-width="1.45" stroke-linejoin="round"/><path d="M1442.1 2578.5c2.3-1.9 5.2-3.8 7-5.6c1.3-1.4 2.3-2.7 3.2-4s1.9-2.9 2.4-4.3c1-2.9 2-5.8 2.3-8.7c.3-3.9 .7-7.8 .7-11.7c0-10.7 0-21.5 0-32.2c0-5.2 1.4-10.4 1.5-15.6c.1-17.8 .1-35.6 .2-53.5h2.6c0 17.9 0 35.7 .2 53.5c0 5.2 1.4 10.4 1.4 15.6c0 10.7 0 21.5 0 32.2c0 3.9 .4 7.8 .8 11.7c.3 2.9 1.2 5.8 2.2 8.7c.5 1.4 1.5 2.9 2.4 4.3s1.9 2.6 3.2 4c1.9 1.8 4.7 3.7 7.1 5.6z" fill="#00BF7D" stroke="#2b2b2b" stroke-width="1.45" stroke-linejoin="round"/><path d="M1271.8 2435.6V2585.6H1486.1" fill="none" stroke="#000" stroke-width="1.9"/><text x="1260.2" y="2586.5" font-size="19.6" text-anchor="end" fill="#000">0</text><text x="1260.2" y="2543.1" font-size="19.6" text-anchor="end" fill="#000">1</text><text x="1260.2" y="2499.6" font-size="19.6" text-anchor="end" fill="#000">2</text><text x="1260.2" y="2456.2" font-size="19.6" text-anchor="end" fill="#000">3</text><path d="M1296.5 2585.6v5.6M1337.6 2585.6v5.6M1378.6 2585.6v5.6M1419.6 2585.6v5.6M1460.7 2585.6v5.6M1271.8 2578.5h-5.6M1271.8 2535.1h-5.6M1271.8 2491.6h-5.6M1271.8 2448.2h-5.6" stroke="#000" stroke-width="1.9" fill="none"/><text x="1376.6" y="2418.8" font-size="27.2" text-anchor="middle" fill="#000">2700094K13Rik</text><text x="1238.9" y="2510.6" font-size="23.3" text-anchor="middle" fill="#000" transform="rotate(-90 1238.9 2510.6)">Expression Level</text><rect x="1500.2" y="2446.6" width="24.2" height="25" fill="#F8766D" stroke="#444" stroke-width="1.3"/><text x="1528.2" y="2467" font-size="21.8" text-anchor="start" fill="#000">Normal</text><rect x="1500.2" y="2472.9" width="24.2" height="25" fill="#0B8A97" stroke="#444" stroke-width="1.3"/><text x="1528.2" y="2493.3" font-size="21.8" text-anchor="start" fill="#000">Early KIC</text><rect x="1500.2" y="2499.2" width="24.2" height="25" fill="#A3A500" stroke="#444" stroke-width="1.3"/><text x="1528.2" y="2519.6" font-size="21.8" text-anchor="start" fill="#000">Late KIC</text><rect x="1500.2" y="2525.5" width="24.2" height="25" fill="#5C5CFF" stroke="#444" stroke-width="1.3"/><text x="1528.2" y="2545.9" font-size="21.8" text-anchor="start" fill="#000">Late KPfC</text><rect x="1500.2" y="2551.8" width="24.2" height="25" fill="#00BF7D" stroke="#444" stroke-width="1.3"/><text x="1528.2" y="2572.2" font-size="21.8" text-anchor="start" fill="#000">Late KPC</text></g></svg></body></html>
